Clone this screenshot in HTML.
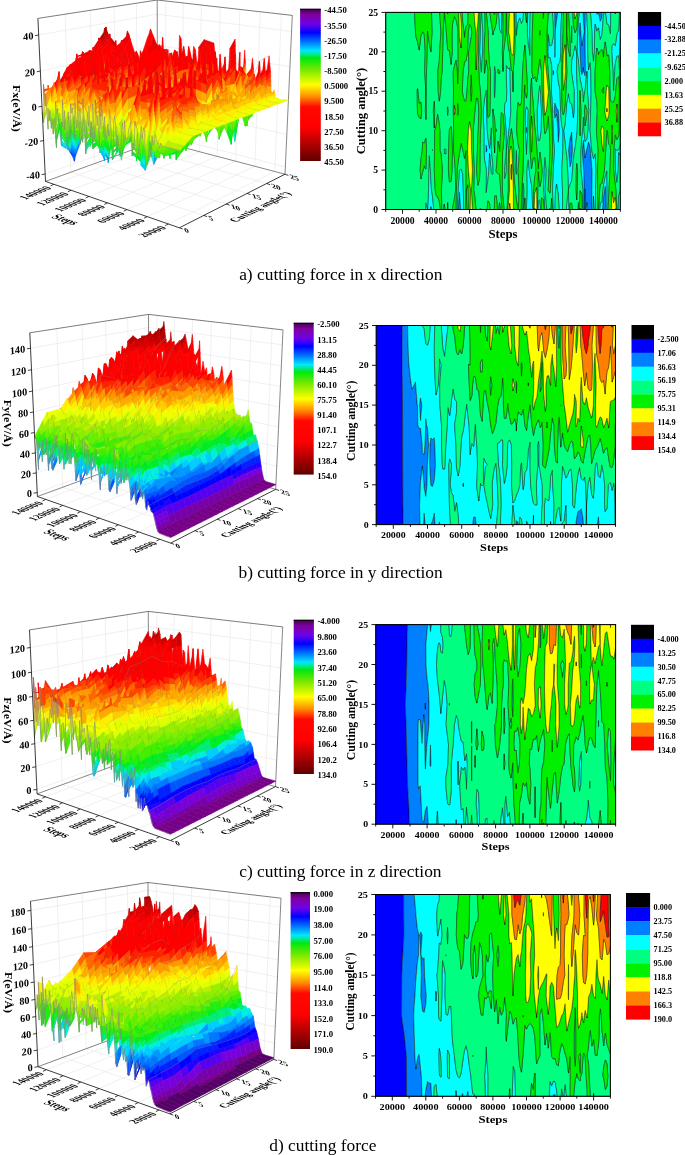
<!DOCTYPE html><html><head><meta charset="utf-8"><title>Cutting force</title><style>html,body{margin:0;padding:0;background:#fff}svg{display:block}</style></head><body><svg width="685" height="1155" viewBox="0 0 685 1155">
<rect width="685" height="1155" fill="#fff"/>
<path d="M168.4,224L274.8,171.5M274.8,171.5L281.4,14.2M147.2,216.6L254.9,166.3M254.9,166.3L260.2,11.8M126.9,209.6L235.8,161.2M235.8,161.2L239.8,9.4M107.5,202.8L217.3,156.4M217.3,156.4L220.2,7.2M88.9,196.4L199.5,151.7M199.5,151.7L201.4,5.1M71,190.2L182.3,147.2M182.3,147.2L183.2,3M53.8,184.3L165.7,142.9M165.7,142.9L165.7,1M203.7,215.4L70.8,172.2M70.8,172.2L65,14.2M226.2,204L94.5,163.6M94.5,163.6L90.3,10.3M247.1,193.4L116.8,155.5M116.8,155.5L114,6.7M266.7,183.5L137.8,147.9M137.8,147.9L136.3,3.2M45.2,174L157.6,134.3M157.6,134.3L285.3,166.9M43.6,140.6L157.5,105.3M157.5,105.3L286.8,134.4M42,106.3L157.4,75.6M157.4,75.6L288.4,101M40.4,71.1L157.3,45.2M157.3,45.2L289.9,66.7M38.7,35L157.2,14.2M157.2,14.2L291.6,31.5" stroke="#e6e6e6" stroke-width=".6" fill="none"/>
<path d="M157.6,140.7L157.2,0M285,174.2L292.3,15.4M45.5,181.4L157.6,140.7M285,174.2L157.6,140.7" stroke="#555" stroke-width=".7" fill="none"/>
<path d="M37.9,18.4L157.2,0M157.2,0L292.3,15.4" stroke="#444" stroke-width=".7" fill="none"/>
<g fill="currentColor" stroke="currentColor" stroke-width=".6" stroke-linejoin="round">
<path color="#f00" d="M166,59.3l-.3-7-.3,4.3-4.9,1.1 .2-2.6 .3,6.1zM182.3,59.4l-.3-5.1-.2-5.2-.3-5.1-.3-5.2-1.7-3.6-.3,10.9-.4,10.8-5,13.8 .3-10.2 .4-10.4 1.7,1.3 .3,2.3 .3,2.4 .3,2.4 .2,2.3zM196.7,61.5l-.3-3-.4-3-.3-3-.3-3-.5-.8-.4-.8-.4-.8-.5-.8-.4,6.6-.3,6.4-.4,6.5-4.8-6.6 .3-4.3 .3-4.2 .4-4.3 .4,1.9 .4,1.8 .5,1.9 .4,1.9 .4,1.9 .3,1.9 .3,2 .4,1.9zM199.3,62.6l-.4-2.6-1,2.2-4.9,1.6 .9,.3 .5,0zM215.9,67.1l-.2-3.9-.2-3.8-.4-3.3-.3-3.2-.3-3.3-.3-3.2-4.8-2.8 .3,2.1 .3,2.1 .4,2.2 .3,2.1 .3,5.1 .2,5.1zM235.8,63.7l-.2-6.1-.2-6.2-.1-6.1-5,8 .2,5.3 .2,5.3 .2,5.3zM245.4,61.7l-.3-3.9-.2-3.9-.2-3.9-.6,9.1-.6,9.1-4.6-2.6 .5-6.6 .5-6.7 .1,9.3 0,9.3 .1,9.3zM253.4,68.6l-.3-3.5-.3-3.5-.3-3.5-.5,3.7-.4,3.7-.5,3.7-4.8,5.9 .3,.4 .3,.4 .3,.4 .4,.3 .4,.4 .4,.3zM270.5,71.6l-.2-2.6-.3-2.7-.2-2.6-.3-2.6-.2-2.7-.2-2.6-.5,3.4-.5,3.5-.5,3.4-.5,3.4-4.8,6.5 .5-4.4 .5-4.4 .5-4.4 .5-4.4 .2,3.6 .2,3.5 .3,3.6 .2,3.6 .2,3.5 .2,3.6z"/>
<path color="#f20" d="M182.5,64.5l-.2-5.1-5,1.4 .3,2.4zM197.9,62.2l-.9,2.2-.3-2.9-4.9,.1 .3,1.9 .9,.3zM200.1,68l-.4-2.7-.4-2.7-4.9,1.5 .4,0 .5,.1zM216.2,71l-.3-3.9-4.7-4.8 .2,5.1zM225.4,67.4l-.3-3.1-.2-3.2-1,3.5-5,9.7 1-3.3 .2,2.6 .3,2.5zM235.9,69.7l-.1-6-4.9,5.5 .2,5.3zM251.1,69.2l-.4,3.7-.5,3.6-4.6-2.2 .3,.4 .4,.4zM253.7,72.1l-.3-3.5-5,8.7 .4,.4zM262.6,73.3l-.3-3.2-5,10.9 .4,.1zM270.7,76.8l-.2-5.2-4.9,8.2 .3,2.1z"/>
<path color="#e00" d="M214.2,46.4l-.3-3.3-4.9-1.7 .4,2.2zM235.3,45.3l-.2-6.2-5,8.9 .2,5.3z"/>
<path color="#f40" d="M216.4,74.8l-.2-3.8-4.8-3.6 .2,5.1zM245.6,65.6l-.2-3.9-5.3,18.5 .1,9.2zM254,75.5l-.3-3.4-4.9,5.6 .4,.3zM270.8,82l-.1-5.2-4.8,5.1 .3,2.1z"/>
<path color="#f90" d="M216.7,78.7l-.3-3.9-4.8-2.3 .3,5.1zM245.8,69.5l-.2-3.9-5.4,23.8 .1,9.1zM254.4,81.7l-.2-3.1-4.8,4.8 .1,5.3z"/>
<path color="#f60" d="M238.4,75.3l-.2-3.8-.5,1.1-.6,1-.5,1.1-.5,1.1-4.8,3.9 .4,1 .5,1 .5,.9 .4,1 .3,.9zM254.2,78.6l-.2-3.1-4.8,2.5 .2,5.4zM271,87.2l-.2-5.2-4.6,2 .2,2.2z"/>
<path color="#fc0" d="M246,73.4l-.2-3.9-5.5,29 0,9.1zM247.9,77.4l-.3-.6-.3-.7-.4-.7-.3-.7-.3-.7-5.6,31.6 .4-1.9 .4-2 .4-2 .4-1.9 .4-2zM271.3,97.4l-.2-5.1-4.4-4 .3,2.1zM275.2,95.2l-.6-2.7-4.6,.8 .6,3.1z"/>
<path color="#fe0" d="M246.3,74l-.3-.6-5.7,34.2 .4-2zM275.8,98l-.6-2.8-4.6,1.2 .6,3.1z"/>
<path color="#8e0" d="M257.9,107.3l-.3,.3-.4,.4-4.8,6.4 .4-2.6 .5-2.6z"/>
<path color="#fa0" d="M271.1,92.3l-.1-5.1-4.6-1 .3,2.1zM274.6,92.5l-.6-2.8-.6,3.2-4.5-2.1 .5-.5 .6,3z"/>
<path color="#ef0" d="M288.4,100.1l-2.1-.4-2.1-.2-2.2,.5-2.1-.3-2-1.7-2.1,0-4.6,1.5 2,.4 2.1,1.1 2.1,.2 2.2-.2 2.1,.5 2.1,.3z"/>
<path color="#f00" d="M157.4,62.6l-.3-3.5-.3-3.5-.3-3.5-.3-3.5-.3-3.5-.3-3.5-5.1-12.6 .3,4.4 .3,4.4 .3,4.4 .3,4.4 .3,4.3 .3,4.4zM177.3,60.8l-.2-2.3-.3-2.4-.3-2.4-.3-2.3-1.7-1.3-5.1,14.9 1.7-.9 .3-.5 .3-.4 .3-.5 .3-.4zM192.1,63.5l-.3-1.9-.4-1.9-.3-2-.3-1.9-.4-1.9-.4-1.9-.5-1.9-.4-1.8-.4-1.9-.4,4.3-.3,4.2-.3,4.3-.4,4.2-.3,4.2-4.9-11.2 .3-2 .3-1.9 .3-2 .3-2 .4-2 .4,3 .4,2.9 .5,2.9 .4,3 .3,.8 .4,.9 .4,.9 .3,.8 .4,.9zM211.4,67.4l-.2-5.1-.2-5.1-.3-5.1-.3-2.1-.4-2.2-4.8-5.1 .3,1 .4,1 .2,6.4 .2,6.4 .3,6.3zM230.9,69.2l-.2-5.3-.2-5.3-.2-5.3-.2-5.3-.5,7.1-.5,7-.5,7.1-5,6.2 .5-6.1 .4-6.2 .5-6.2 .2,4.5 .2,4.5 .3,4.5 .2,4.4zM240,70.9l0-9.3-.1-9.3-.5,6.7-.5,6.6-.6,6.6-4.6-5 .4-4.2 .4-4.2 .5-4.3-.1,14.9 0,14.7zM245.6,74.3l-.3-.4-4.6-6.4 .2,4.5zM265.2,72.7l-.2-3.6-.3-3.6-.2-3.5-.2-3.6-.5,4.4-.5,4.4-.5,4.4-4.9,5.6 .5-5.4 .5-5.4 .6-5.4 .2,4.5 .2,4.6 .2,4.5 .2,4.5z"/>
<path color="#f20" d="M177.9,65.6l-.3-2.4-.3-2.4-5,1.5 .3-.5 .3-.4zM194.8,64.1l-.4,0-.5,0-.9-.3-.9-.3-4.9-.9 .8,2.8 .9,2.9 .5-2.7 .5-2.7zM197.8,69.6l-.2-4.5-4.9-5 .2,4.7zM211.6,72.5l-.2-5.1-4.8-3.6 .2,6.3zM245.9,74.7l-.3-.4-4.7-2.3 .2,4.5zM265.4,76.2l-.2-3.5-4.9,6.4 .1,4.5z"/>
<path color="#f40" d="M179.1,68.2l-.6-1.3-.6-1.3-5-4.2 .6,3.4 .6,3.5zM198.1,74.2l-.3-4.6-4.9-4.8 .3,4.7zM231.1,74.5l-.2-5.3-5,5.6 .2,4.5zM246.6,75.5l-.3-.4-.4-.4-4.8,1.8 .2,4.6 .2,4.4zM249.2,78l-.4-.3-4.9,5.7 .5-2.8zM265.6,79.8l-.2-3.6-5,7.4 .2,4.5z"/>
<path color="#d00" d="M209.4,43.6l-.4-2.2-4.9-1.7 .3,1z"/>
<path color="#e00" d="M210,47.8l-.3-2.1-.3-2.1-5-2.9 .4,1 .4,1z"/>
<path color="#f60" d="M211.9,77.6l-.3-5.1-4.8-2.4 .2,6.3zM246.9,75.9l-.3-.4-5.1,10 .2,4.5zM248.8,77.7l-.4-.4-.4-.3-5.1,11.9 .5-2.7 .5-2.8zM249.4,83.4l-.2-5.4-4.8,2.6 .1,7.6zM267,90.4l-.3-2.1-.3-2.1-.2-2.2-.3-2.1-.3-2.1-5,8.3 .4-1 .4-1 .4-.9 .4-1 .4-1z"/>
<path color="#f90" d="M240.1,80.2l-.1-9.3-5.1,13.2-.1,14.6zM248,77l-.4-.4-.4-.3-.3-.4-5.2,14.1 .2,4.5 .5-2.8 .5-2.8zM269.4,90.3l-.5,.5-.6,.6-.5,.6-.6,.5-.2-2.1-4.4-7.2 .3-.9 .5,2.1 .4,2.1 .5,2.2 .4,2.1z"/>
<path color="#0e7" d="M240.7,105.6l-.4,2-5.6,33.9 .5-4.5z"/>
<path color="#0e2" d="M241.1,103.7l-.4,1.9-5.5,31.4 .4-4.5z"/>
<path color="#2e1" d="M241.5,101.7l-.4,2-5.5,28.8 .5-4.6zM252.4,114.4l-.4,2.5-.4-1.7-.5-1.7-.4-1.8-.5-1.7-5.2,15.9 .6-.1 .5-.1 .5,0 .5-.1 .5-4.8z"/>
<path color="#4e0" d="M241.9,99.7l-.4,2-5.4,26.2 .4-4.5zM252.8,111.8l-.4,2.6-4.8,6.4 .4-4.8z"/>
<path color="#8e0" d="M253.3,109.2l-.5,2.6-4.8,4.2 .5-4.8z"/>
<path color="#fa0" d="M270,93.3l-.6-3-4.7,.5 .6,3.4z"/>
<path color="#fc0" d="M270.6,96.4l-.6-3.1-4.7,.9 .6,3.4z"/>
<path color="#fe0" d="M271.2,99.5l-.6-3.1-4.7,1.2 .6,3.4z"/>
<path color="#ef0" d="M283.8,101.8l-2.1-.3-2.1-.5-2.2,.2-2.1-.2-2.1-1.1-2-.4-4.7,1.5 2.1,.8 2.1,.5 2.1,.2 2.1,.1 2.2,.6 2.1,.4z"/>
<path fill="none" stroke="#8c8c8c" stroke-width=".4" stroke-opacity=".7" d="M269.1,55.8L259.5,61M247.9,77.4L237.4,114.2M228.3,80.5L218.6,84.4M209.2,103.1L199.8,81.4M191.5,84.9L181.8,58.4M174.2,78.6L164.2,100.3"/>
<path fill="none" stroke="#4a4a3a" stroke-width=".45" stroke-opacity=".8" d="M279.2,103.6l-2.1-.4-2.2-.6-2.1-.1-2.1-.2-2.1-.5-2.1-.8-1.8-10.2-1.8-8.5-2.3,5.8-1.1-27.1-3.2,32.1-1.5-16.5-2.6,15.5-2.2,4.5-2.9,29-2.1,.3-.6-45.3-2.5,13.9-1.2-27-3.3,46.7-2.7,27.3 .3-87-2.6,25.1-2.1,3.9-2.3,12.3-1.6-12-1.4-26.9-2.8,36.8-2.2,14.7-1.4-24-2.1,8.3-1.7-11.7-2,6-2,7.9-1.6-15.8-2,3.6-1.3-38-1.8-5-2.6,49.8-1.7-8.1-1.9,7-1.8-5-1.9,4.6-1.5-27.9-1.9-2.5-1.9,10.7-1.7-5.7-1.8-4.3-1.7-11.8-1.9,11.9-2,33.8-1.7-11.2-1.7-10.9-1.8,1.6-1.7-10.3-1.8,2.7-1.7,.9-1.8,58-1.7-14.4-1.7-8.3-1.7-31.4-1.7,26.7-1.7-25-1.6,17.8-1.8-30.5-1.7,5.9-1.7-8.5-1.8-26.3-1.7,5.9-1.6,3.6"/>
<path color="#f00" d="M152.7,57.4l-.4-2.1-.3-4.4-.3-4.3-.3-4.4-.3-4.4-.3-4.4-.3-4.4-.9,3-.8,2.9-.8,1.8-.8,1.8-5.1,15.6 .8-1.9 .8-1.9 .9-.5 .8-.5 .3,1.3 .3,1.3 .3,1.3 .3,1.3 .2,1.3 .3,1.2 .5,2.8zM173.5,64.8l-.3-1.7-.3-1.7-.3,.4-.3,.5-.3,.4-5.1-.6 .3-4.2 .3-4.2 .3-4.2 .3,4.1 .3,4zM188.3,66.4l-.5-1.9-.6-1.9-.9-2.2-.9-2.1-.3-2-.3-1.9-.3-2-.3-2-.3-1.9-.2-2-.5,3-.5,3-.4,2.9-.5,3-5.1,11.2 .4-.1 .5-.2 .4-.1 .5-.1 .3-1.8 .3-1.9 .3-1.8 .3-1.9 .3-1.8 .3-1.9 .9-.4 .9-.4 .6,2.5 .6,2.6zM192.9,64.8l-.2-4.7-1.9-2.5-.4,2.6-.5,2.7-.5,2.7-.5,2.7-5-3.5 .5-2 .4-2 .5-2 .5-2 1.8-.4 .3,6.7zM206.6,63.8l-.3-6.3-.2-6.4-.2-6.4-.5-1.3-.4-1.2-5.2,9.7 .5,2.5 .4,2.4 .2,5.8 .3,5.7 .2,5.7zM225.9,74.8l-.2-4.4-.3-4.5-.2-4.5-.2-4.5-.5,6.2-.4,6.2-5,1.4 .5-8.2 .5-8.2 .2,3.5 .3,3.5 .3,3.4 .2,3.5zM234.9,69.4l.1-14.9-.5,4.3-.4,4.2-.4,4.2-.5,4.1-5,3.9 .4-1.8 .4-1.9 .4-1.9 .3-1.8 .2,8.7zM260.1,74.6l-.2-4.5-.2-4.6-.2-4.5-.6,5.4-.5,5.4-5.2,12.9 .5-5.3 .5-5.4 .3,3 .2,3.1 .3,3.1z"/>
<path color="#f20" d="M174.1,68.3l-.3-1.7-.3-1.8-5.1-7.2 .3,4 .3,4.1zM188.9,68.3l-.6-1.9-5-4.1 .6,2.5zM193.2,69.5l-.3-4.7-5-1.7 .2,6.7zM226.1,79.3l-.2-4.5-4.8-6.6 .3,3.4zM240.9,72l-.2-4.5-.6,7.9-5.1,10.5 .4-4.2 .3,3.8zM255,79.3l-.2-2.7-.5,3.1-5,3.9 .6-3.4 .2,4.4zM260.3,79.1l-.2-4.5-5.1,8.6 .2,3z"/>
<path color="#f40" d="M176.7,71.9l-.3-1.8-5.1-10.5 .3,4.8zM206.8,70.1l-.2-6.3-5.2,10.2 .3,5.7zM226.4,83.8l-.3-4.5-4.7-7.7 .2,3.5zM234.9,84.1l0-14.7-5,7.1 .1,8.7zM241.1,76.5l-.2-4.5-5.2,13.5 .2,3.8zM260.4,83.6l-.1-4.5-5.1,7.1 .3,3.1z"/>
<path color="#f60" d="M177,73.8l-.3-1.9-5.1-7.5 .3,4.7zM193.4,74.1l-.2-4.6-5.1,.3 .3,6.6zM226.7,86.2l-.3-2.4-4.8-8.7 .4,3.1zM255.3,82.1l-.3-2.8-4.9,5.3 .2,4.3zM263.5,85.1l-.6-2.8-1.1,2.9-4.9,4.5 1.1-2.6 .6,2.9z"/>
<path color="#e00" d="M205,42.2l-.5-1.2-.4-1.3-5.2,7.3 .5,2.5 .4,2.4z"/>
<path color="#f90" d="M207,76.4l-.2-6.3-5.1,9.6 .2,5.7zM227,88.6l-.3-2.4-4.7-8 .3,3.2zM241.3,81.1l-.2-4.6-5.2,12.8 .3,3.9zM244.5,88.2l-.1-7.6-.4,2.3-.4,2.3-5.1,7.2 .5-3 .4-3.1 .2,4.1zM261.8,85.2l-1.2,2.9-.2-4.5-4.9,5.7 .2,3 1.2-2.6zM264.1,88l-.6-2.9-4.9,4.9 .6,3z"/>
<path color="#fc0" d="M234.8,98.7l.1-14.6-4.9,1.1 .1,8.7zM241.7,90l-.2-4.5-5.1,11.5 .2,3.8zM244.6,95.8l-.1-7.6-4.9,2.2 .2,4zM265.9,97.6l-.6-3.4-4.8,3.9 .6,2.2z"/>
<path color="#0ed" d="M235.2,137l-.5,4.5-4.2-21.9 .4-2.2z"/>
<path color="#0e7" d="M235.6,132.5l-.4,4.5-4.3-19.6 .4-2.2z"/>
<path color="#0e2" d="M236.1,127.9l-.5,4.6-4.3-17.3 .3-2.1z"/>
<path color="#2e1" d="M236.5,123.4l-.4,4.5-4.5-14.8 .4-2.2zM247.1,125.6l-.7,.1-4.4-11.9 .6,1.6z"/>
<path color="#4e0" d="M237,118.8l-.5,4.6-4.5-12.5 .4-2.2zM246.4,125.7l-.7,.1-.7,.1-4.3-15.3 .7,1.6 .6,1.6zM247.6,120.8l-.5,4.8-4.5-10.2 .4-2.6z"/>
<path color="#fa0" d="M241.5,85.5l-.2-4.4-5.1,12.1 .2,3.8zM265.3,94.2l-.6-3.4-.6-2.8-4.9,5 .6,2.9 .7,2.2z"/>
<path color="#ef0" d="M244.7,103.4l-.1-7.6-4.8-1.4 .3,4.1zM274.9,102.6l-2.1-.1-2.1-.2-2.1-.5-2.1-.8-4.8,1.5 2.1,1 2.1,.3 2.2,.3 2.1,.3zM279.2,103.6l-2.1-.4-4.8,1.7 2.2,.4z"/>
<path color="#6e0" d="M248,116l-.4,4.8-4.6-8 .4-2.5z"/>
<path color="#8e0" d="M248.5,111.2l-.5,4.8-4.6-5.7 .5-2.5z"/>
<path color="#fe0" d="M266.5,101l-.6-3.4-4.8,2.7 .6,2.2zM277.1,103.2l-2.2-.6-4.7,1.8 2.1,.5z"/>
<path color="#f20" d="M142.9,52.2l-.8,1.9-5.1,15.8 .8-2.1zM148,62.7l-.4-2.9-5.2,2.5 .4,3.5zM201.2,68.3l-.3-5.7-5.2,11.5 .3,5.1zM222.3,81.4l-.3-3.2-4.9-8.1 .3,3.9zM229.4,69.6l-.4,1.9-.4,1.9-.4,1.8-.3,1.9-5,1.6 .3,.5 .3,.5 .3,.4 .4,.5zM229.9,76.5l-.2-8.7-5.2,13.3 .2,2.6zM254.5,77l-.3-3-5.2,13 .3,1.6z"/>
<path color="#f00" d="M147.6,59.8l-.5-2.8-.3-1.2-.2-1.3-.3-1.3-.3-1.3-.3-1.3-.3-1.3-.8,.5-.9,.5-.8,1.9-5.1,15.6 .8-2 .9,2 .8,1.9 .3-1.8 .3-1.8 .2-1.8 .3-1.8 .2-1.8 .3-1.9 .5,3.5zM169,65.7l-.3-4.1-.3-4-.3-4-.3-4.1-.3,4.2-.3,4.2-.3,4.2-5.2-.7 .3-8 .3-8 .3-8.1 .3,6.5 .3,6.4 .3,6.4 .3,6.4zM171.9,69.1l-.3-4.7-.3-4.8-.3,2.4-.3,2.3-.3,2.4-5.1-4.3 .3-4.5 .3-4.5 .3-4.5 .3,7.7 .3,7.7zM188.1,69.8l-.2-6.7-.3-6.7-1.8,.4-.5,2-.5,2-.4,2-.5,2-.6-2.5-.6-2.6-.6-2.5-.9,.4-.9,.4-.3,1.9-.3,1.8-5.2,7.5 .3-5.7 .4-5.7 .9-3.1 .9-3.1 .6,3.2 .6,3.3 .6,3.2 .5-1.3 .4-1.3 .5-1.3 .5-1.3 1.8-3.4 .3,8.7 .2,8.7zM200.9,62.6l-.2-5.8-.4-2.4-.5-2.5-.4-2.4-.5-2.5-.4,6.6-.4,6.6-.3,6.5-5.2,1.8 .4-4.7 .4-4.7 .3-4.7 .5,3.7 .4,3.6 .4,3.7 .5,3.6 .2,5.1zM222,78.2l-.4-3.1-.2-3.5-.3-3.4-.2-3.5-.3-3.4-.3-3.5-.2-3.5-.5,8.2-.5,8.2-5,1.5 .5-10.3 .5-10.2 .3,2.4 .3,2.4 .2,2.5 .3,2.4 .3,2.4 .3,2.4 .3,3.9zM229.7,67.8l-.3,1.8-5.2,11 .3,.5z"/>
<path color="#f40" d="M172.2,73.8l-.3-4.7-5.1-4.8 .3,7.6zM204.8,78.7l-.2-3.6-5-6.7 .3,4.6zM222.6,84.5l-.3-3.1-4.9-7.4 .4,3.9zM250.1,84.6l-.2-4.4-.6,3.4-5,4 .6-3.6 .1,5.9zM254.7,80.1l-.2-3.1-5.2,11.6 .3,1.6z"/>
<path color="#f60" d="M188.4,76.4l-.3-6.6-5.1,.3 .3,8.7zM201.4,74l-.2-5.7-5.2,10.9 .2,5.1zM205.1,82.3l-.3-3.6-4.9-5.7 .2,4.5zM230,85.2l-.1-8.7-5.2,7.2 .3,2.7zM255.2,86.2l-.2-3-.3-3.1-5.1,10.1 .3,1.6 .3,1.6z"/>
<path color="#fa0" d="M188.6,83.1l-.2-6.7-5.1,2.4 .2,8.6zM230.1,93.9l-.1-8.7-5,1.2 .3,2.6zM235.7,85.5l-.3-3.8-.4,4.2-5.2,10.5 .4-.4 .2,3.1zM239.8,94.4l-.2-4-.2-4.1-.4,3.1-5.1,6.5 .4-3.8 .3,.5 .4,.4zM256.9,89.7l-1.2,2.6-.2-3-5,5.7 .3,1.6 1.1-2.3zM259.2,93l-.6-3-5,5.1 .6,3z"/>
<path color="#fe0" d="M230.2,102.5l-.1-8.6-4.8-4.9 .3,2.7zM236.2,93.2l-.3-3.9-5.2,12.9 .2,3.2zM240.3,102.5l-.2-4-4.8-5 .3,.4zM263.8,103.5l-2.1-1-.6-2.2-.6-2.2-5,4 .7,.9 .7,1 2.1,1.3zM274.5,105.3l-2.2-.4-2.1-.5-2.1-.3-4.9,1.6 2.2,.5 2.1,.4 2.2,.5z"/>
<path color="#fc0" d="M235.9,89.3l-.2-3.8-5.3,13.6 .3,3.1zM240.1,98.5l-.3-4.1-4.8-1.4 .3,.5zM260.5,98.1l-.7-2.2-.6-2.9-5,5.1 .6,3 .7,1z"/>
<path color="#ef0" d="M240.7,110.6l-.2-4-.2-4.1-4.7-8.6 .4,.5 .3,.4zM268.1,104.1l-2.2-.3-2.1-.3-4.8,1.8 2.1,0 2.1,.4z"/>
<path color="#df0" d="M241.4,112.2l-.7-1.6-4.4-15.8 .6,3.4z"/>
<path color="#f90" d="M250.3,88.9l-.2-4.3-5.1,5.3 .2,5.8zM255.5,89.3l-.3-3.1-5,7.2 .3,1.6zM258.6,90l-.6-2.9-1.1,2.6-5,4.6 1.1-2.3 .6,3.1z"/>
<path fill="none" stroke="#8c8c8c" stroke-width=".4" stroke-opacity=".7" d="M259.5,61L249,87M237.4,114.2L228.1,98.6M218.6,84.4L208.8,78.4M199.8,81.4L189.5,101.7M181.8,58.4L171.5,80.9M164.2,100.3L154.1,112.3"/>
<path fill="none" stroke="#4a4a3a" stroke-width=".45" stroke-opacity=".8" d="M269.7,107.1l-2.2-.5-2.1-.4-2.2-.5-2.1-.4-2.1,0-2.1-1.3-2.1-2.9-1.8-9.1-2.2,4.6-1.8-9.6-3.1,31.9-1-34.9-2.6,18.2-2.2,1.4-2,1.3-1.8-10.1-2-2.7-2.6,22.6-1.5-18.7-2.1,2.6-2-1.7-1.6-15.8-2-2.8-2.1,5.7-2,1.7-1.6-19.5-1.7-14.5-3,60.4-1.9-5-1.4-28.7-2.2,17.2-1.8-8.8-2.2,18.2-1.7-13.8-1.6-27.4-2.3,35.6-1.5-30.4-1.8-14.6-2.1,28-2.1,19.3-1.7-15.5-1.8-.5-2,18.8-1.5-51.8-1.8,3.4-1.9,5.2-1.8-9.7-1.8,6.2-1.9,33.9-1.8-10.8-1.8,7-1.8,6.8-1.7-45.8-1.8,26.9-1.8-38.5-1.7,47.8-1.7,2.5-1.7,23.9-1.6,18.1-1.8-17.3-1.9-45.5-1.5,37.3-2-47-1.7,.5-1.5,22.2-1.8-7-1.8-14-1.6,10.9-1.7-3.9-1.6,4.1"/>
<path color="#f20" d="M143,67.2l-.4-2.8-5.4-7.2 .4,2.9zM194.9,64.2l-.3-2.5-5.3,18.3 .2,3.6zM199.9,73l-.3-4.6-5.2,4.8 .3,2.9zM217.6,76l-.3-3.3-5.1,3.7 .3,3.7z"/>
<path color="#f40" d="M143.4,70l-.4-2.8-5.4-7.1 .4,2.9zM149.4,72.9l-.4-7.8-5.3-3.1 .3,6zM195.2,66.6l-.3-2.4-5.4,19.4 .3,3.5zM200.1,77.5l-.2-4.5-5.2,3.1 .3,2.9zM217.9,79.2l-.3-3.2-5.1,4.1 .2,3.6z"/>
<path color="#f90" d="M149.7,80.8l-.3-7.9-5.4-4.9 .4,5.9zM195.7,74.1l-.2-5.1-5.4,21.7 .3,3.3zM226.5,97.2l-.4-.3-.2-2.6-.3-2.6-.3-2.7-.3-2.6-.3-2.7-.2-2.6-2-2.8-1,2.8-1.1,2.9-2,1.7-.3-3.2-5.1,4.8 .3,3.7 1.9,.5 1,.5 1,.5 2-.1 .4-2.4 .4-2.4 .4-2.4 .3-2.5 .4-2.4 .4-2.4 .3,3.6zM245,89.9l-.1-5.9-.5,3-5.2,10.2 .5-5.3 .2,4.2zM249.6,90.2l-.6-3.2-5.3,11 .7,.1z"/>
<path color="#f00" d="M164.1,69.4l-.3-6.4-.3-6.4-.3-6.4-.3-6.4-.3-6.5-.3,8.1-.3,8-5.2,17.4 .3-9.4 .2-9.4 .3,2.2 .3,2.2 .3,2.2 .3,2.2 .3,2.2zM167.1,71.9l-.3-7.6-.3-7.7-.3-7.7-.3,4.5-.3,4.5-.3,4.5-.3,4.5-.3,4.4-5.3-9.4 .3-3.2 .3-3.2 .3-3.3 .3-3.3 .3-3.3 .3,4.5 .3,4.4 .3,4.4zM183,70.1l-.2-8.7-.3-8.7-.5,.8-.4,.9-.5,.8-.4,.9-.4,.9-.3,.8-.3,.9-.3,.9-.3,.9-.3,.8-.3-1.6-.3-1.6-.3-1.6-.3-1.7-.3-1.6-.3-1.6-.9,3.1-.9,3.1-.4,5.7-.3,5.7-5.2-8.2 .3-3.7 .3-3.7 .9-.3 .9-.3 .3,2.8 .3,2.8 .3,2.8 .3,2.8 .3,2.8 .3,2.8 .3-2.5 .4-2.5 .3-2.6 .3-2.5 .3-2.6 .3-2.5 .5,1.1 .4,1 .5,1.1 .5,1 .2,6.9 .3,6.8zM194.6,61.7l-.3-2.4-.3-2.5-.3-2.4-.3,4.7-.4,4.7-5.3,10.2 .4-2.4 .3-2.4 .3,3.6 .3,3.6 .3,3.6zM199.6,68.4l-.3-4.6-.4,6-5.2,7.3 .4-6.8 .3,2.9zM217.3,72.7l-.2-3.2-.3-3.3-.4-3.6-.5-3.6-.4-3.7-.4-3.6-.5,10.2-.5,10.3-5.2,2.4 .5-8.9 .5-9 .4,3.1 .5,3.1 .4,3.1 .5,3.1 .2,3.7 .3,3.6z"/>
<path color="#f60" d="M183.3,78.8l-.3-8.7-5.2,2.4 .3,6.8zM195.5,69l-.3-2.4-5.4,20.5 .3,3.6z"/>
<path color="#fa0" d="M183.5,87.4l-.2-8.6-5.2,.5 .3,6.7zM227.1,97.8l-.3-.3-.3-.3-4.7-15.7 .2,3.7 .3,3.6zM236.9,98.2l-.6-3.4-.7-.9-.6-.9-.7-.9-5,3.1 .7-1.4 .7-1.3 .7-1.3 .6,3.5zM245.2,95.7l-.2-5.8-5.1,6.2 .2,4.1zM254.2,98.1l-.6-3-.6-3.1-1.1,2.3-1.1,2.3-.6-3.2-.6-3.2-5.2,7.9 .7,.1 .7,.1 1.1-1.1 1.1-1.2 .6,2.4 .7,2.4z"/>
<path color="#fc0" d="M227.8,98.3l-.4-.3-.3-.2-4.8-9 .2,3.7 .3,3.6zM254.8,101.1l-.6-3-4.9,2.7 .6,2.4z"/>
<path color="#fe0" d="M237.5,101.5l-.6-3.3-4.9-3.5 .6,3.6zM245.4,101.6l-.2-5.9-5.1,4.5 .3,4.2zM259,105.3l-2.1-1.3-2.1-2.9-4.9,2.1 2,2.3 2.1,1.4zM269.7,107.1l-2.2-.5-2.1-.4-4.9,1.9 2.1,.4 2.2,.5z"/>
<path color="#ef0" d="M240.1,103.6l-.6,.5-.7,.4-.7,.4-.6-3.4-4.9-3.2 .6,3.6 .6,1.4 .7,1.4 .6,1.5zM265.4,106.2l-2.2-.5-2.1-.4-2.1,0-5,1.6 2.2,.3 2.1,.7 2.2,.2z"/>
<path color="#be0" d="M242.7,99.1l-.4,3.1-5.6,21 .5-5.1z"/>
<path color="#9e0" d="M246.4,113.7l-.5,5.2-.2-5.7-4.9-.5 .3,4.1 .4-3.1z"/>
<path color="#f00" d="M139.2,67.5l-.8-1.6-.4-2.9-.4-2.9-.4-2.9-.3-3-.4-2.9-.4,.4-.4,.4-.4,.4-.5,.5-.8-2.2-5.7-17.5 .9,2.4 .4,2 .5,2 .4,2 .5,1.9 .4,3.1 .3,3.1 .4,3 .4,3.1 .4,3 .8-.3zM144,68l-.3-6-.3-5.9-1.8-1.5-.2,2.4-.3,2.5-.2,2.4-.3,2.4-.3,2.4-.2,2.5-5.5-10.9 .2-1.2 .3-1.1 .3-1.1 .3-1.1 .2-1.1 .3-1.2 1.8,3.5 .3,4 .3,3.9zM163.3,76.7l-.3-2.4-.3-2.3-.3-4.4-.3-4.4-.3-4.3-.3-4.4-.3-4.4-5.4-6.7 .3,1 .3,1 .3,1 .3,1.1 .3,1 .3,6 .3,6.1zM173.2,67l-.3-2.8-.3-2.8-.3-2.8-.3-2.8-.3-2.8-.9,.3-.9,.3-.3,3.7-.3,3.7-.3,3.8-.3,3.7-.3,3.7-.3,3.6-5.3-16.3 .3-1.7 .3-1.7 .3-1.7 .3-1.7 .3-1.8 .3-1.7 .9,2.7 .9,2.6 .3,4 .3,4 .3,4 .3,4 .3,3.9zM177.5,65.7l-.2-6.9-.5-1-.5-1.1-.4-1-.5-1.1-.3,2.5-.3,2.6-.3,2.5-.3,2.6-.4,2.5-5.3,6.9 .3-4.2 .4-4.2 .3-4.2 .3-4.3 .3-4.2 .5,3 .4,3 .5,3 .4,3 .3,4.9zM212.2,76.4l-.3-3.6-.2-3.7-.5-3.1-.4-3.1-.5-3.1-.4-3.1-.5,9-.5,8.9-5.2,2.5 .4-7.6 .5-7.7 .4,2.5 .5,2.6 .5,2.6 .4,2.5 .3,4.1 .3,4.1zM222,85.2l-.2-3.7-.3-3.6-.4,2.4-.4,2.4-4.9-9.1 .5-7.7 .4-7.7 .2,7.2 .2,7.2z"/>
<path color="#f40" d="M144.4,73.9l-.4-5.9-5.4-5.1 .3,3.9zM195,79l-.3-2.9-.3-2.9-5.3,5 .3,1.2 .3,1.2zM201.9,84.9l-.3-2.3-5-13.3 .2,7.5zM212.5,80.1l-.3-3.7-5.2,3.8 .2,4z"/>
<path color="#f60" d="M144.7,79.8l-.3-5.9-5.5-7.1 .4,3.9zM178.1,79.3l-.3-6.8-5.3,2.4 .3,4.9zM188.7,72.8l-.3-3.6-5.3,14.9 .2,4.8zM202.2,87.1l-.3-2.2-5.1-8.1 .3,7.4zM222.5,92.5l-.2-3.7-4.9-9.1 .2,7.1z"/>
<path color="#e00" d="M161.2,50.1l-.3-4.5-.3,3.3-5.4-4.5 .3-2 .3,1z"/>
<path color="#f20" d="M173.8,67.3l-.3,2.5-.3-2.8-5.3,7.4 .3,4 .3-4.2zM177.8,72.5l-.3-6.8-5.3,4.3 .3,4.9zM194.4,73.2l-.3-2.9-5.3,6.7 .3,1.2zM222.3,88.8l-.3-3.6-4.9-12.6 .3,7.1z"/>
<path color="#f90" d="M178.4,86l-.3-6.7-5.3,.5 .3,4.8zM189,76.4l-.3-3.6-5.4,16.1 .3,4.7zM232,94.7l-.6-3.5-.7,1.3-.7,1.3-5.1,.8 .7-3.5 .8-3.6 .6,3.7z"/>
<path color="#fa0" d="M183.4,89.7l-.4-3.4-5.2-3 .4,3.7zM222.8,96.1l-.3-3.6-4.9-5.7 .2,7zM232.6,98.3l-.6-3.6-5-3.5 .6,3.8zM239.9,96.1l-.2-4.2-5.3,8 .3,2.5zM248.6,98.4l-.6-2.4-1.1,1.2-1.1,1.1-5.1,1.8 1.1,0 1.1-.1 .6,1.8z"/>
<path color="#fc0" d="M223.1,99.7l-.3-3.6-5-2.3 .2,7zM233.2,101.9l-.6-3.6-5-3.3 .6,3.8zM240.1,100.2l-.2-4.1-5.2,6.3 .3,2.5zM245.8,98.3l-.7-.1-.7-.1-5.2,8 .8-3 .7-3zM249.9,103.2l-.6-2.4-.7-2.4-5.1,3.4 .7,1.7 .6,1.7z"/>
<path color="#fe0" d="M233.8,103.3l-.6-1.4-5-3.1 .6,3.3zM240.4,104.4l-.3-4.2-5.1,4.7 .3,2.4zM244.4,98.1l-.7-.1-.4,3.2-5.3,8.8 .4-.9 .8-3zM254,106.9l-2.1-1.4-2-2.3-5.1,2 2.1,1.8 2.1,1.5zM264.8,109l-2.2-.5-4.9,1.9 2.1,.4z"/>
<path color="#0e2" d="M237.2,118.1l-.5,5.1-.2-2.8-5.5,18.1 .2,5.8 .6-7.2z"/>
<path color="#4e0" d="M237.7,112.9l-.5,5.2-5.4,19 .5-7.4z"/>
<path color="#8e0" d="M238.2,107.7l-.5,5.2-5.4,16.8 .5-7.3z"/>
<path color="#be0" d="M238.7,102.4l-.5,5.3-5.4,14.7 .5-7.5z"/>
<path color="#ef0" d="M262.6,108.5l-2.1-.4-2.2-.2-2.1-.7-2.2-.3-5,1.6 2.2,.7 2.1,.9 2.2-.1 2.2,.4z"/>
<path fill="none" stroke="#8c8c8c" stroke-width=".4" stroke-opacity=".7" d="M249,87L238.4,109.1M228.1,98.6L218,100.8M208.8,78.4L198,113.6M189.5,101.7L179.2,98.2M171.5,80.9L161,113.1M154.1,112.3L143.5,90.2"/>
<path fill="none" stroke="#4a4a3a" stroke-width=".45" stroke-opacity=".8" d="M259.8,110.8l-2.1-.4-2.2-.4-2.2,.1-2.1-.9-2.2-.7-2.1-1.5-2.1-1.8-1.9-5.2-2.2,.1-2.3,9-2.3,5.5-1.7-14.7-3.2,44.4-1.2-35.5-1.8-10-1.8-11.3-2.3,10.7-2.3,14.2-2.1,1.8-1.7-13.4-1.3-42.6-2.8,45.6-2.1,3.1-1.8-7.8-2-2.8-1.6-24.3-1.8-10.2-2.6,45.5-1.9-2-2.1,8.3-1.4-44.3-2.2,27.3-2.1,17.1-1.6-29.6-1.9-7.1-2.3,44-1.8-8.6-1.6-28.3-1.9,.6-2,13.5-1.7-18.7-2,23.8-1.8-9-1.8-29.2-1.8-12-1.9,25.3-1.8-23.9-1.8-5.3-1.8,10.3-1.8,53.6-1.8-28.6-1.9-36-1.8-6.1-1.8,11.9-1.7,12.4-1.4,63.7-2-42.3-1.4,37.8-1.8-7.9-1.9-27.8-1.4,36.9-2.2-48.6-1.9-23.5-1.8-3.5-1.6,6.8-1.7,.6-1.9-15.3-1.8-7.9-1.8-4.8-1.6,7.9"/>
<path color="#d00" d="M128.6,34.1l-.6-1.6-.6-1.6-.5,2.7-.5,2.6-5.5,5.9 .6-1.1 .5-1 .6,2.2 .6,2.2z"/>
<path color="#e00" d="M129.8,38.4l-.6-2.7-.6-1.6-5.4,10.3 .6,2.2 .6,1.8zM155.8,43.4l-.3-1-.3,2-5.5,4.4 .3-3.1 .3,3.8zM164.9,50.3l-.3-1.1-.3,1.7-5.5-3.4 .3-3 .4,2.5z"/>
<path color="#f00" d="M138.6,62.9l-.3-3.9-.3-4-.9-1.7-.9-1.8-.3,1.4-.3,1.3-.4,1.4-.3,1.3-.3,1.4-.3,.1-.3,.1-.3,.1-.3,.1-.2,.1-.3,.1-.4-3-.4-3.1-.4-3-.3-3.1-.4-3.1-.6-2.6-.6-2.6-5.4,10 .6,1.8 .6,1.8 .3,.2 .4,.2 .3,.2 .4,.2 .3,.2 .3,1.9 .3,2 .3,1.9 .3,1.9 .4,1.9 .3,1.9 .3-2.2 .3-2.2 .3-2.3 .3-2.2 .3-2.2 .9,2.5 .9,2.6 .3,3.8 .4,3.7zM157.9,60.6l-.3-6.1-.3-6-.3-1-.3-1.1-.3-1-.3-1-.3-1-5.5,6.1 .4,3.8 .3,3.7 .3,3.8 .3,3.7 .3,3.7 .4,2.7 .3,2.7zM167.3,66.5l-.3-4-.3-4-.3-4-.4-1-.3-1.1-.4-1.1-.4-1-5.4-3.3 .4,2.4 .3,2.4 .4,2.4 .4,2.5 .3,7.9 .3,7.9 .3,7.8zM206,69.5l-.5-2.6-.5-2.6-.4-2.5-.5,7.7-5.4,10.3 .4-5.3 .5,3.2 .4,3.1 .5,3.2zM217.1,72.6l-.2-7.2-.2-7.2-.4,7.7-.5,7.7-.5,7.6-5.2-4.6 .4-3.2 .4-3.2 .4-3.2 .2,8.2 .2,8z"/>
<path color="#f20" d="M138.9,66.8l-.3-3.9-5.4,3.1 .3,3.8zM171.9,65.1l-.3-2-.3-2-.3-2-.3-2-.3-2-.3-2-.3,4.2-5.4,34.3 .3-2.4 .3-.9 .3-.9 .3-.9 .3-.9 .3-.9 .3-.8zM196.8,76.8l-.2-7.5-5.4,9.5 .3,6.4zM206.7,76.1l-.3-4.1-.4-2.5-5.5,14.5 .4,3.2 .4,1.3zM217.4,79.7l-.3-7.1-5.4,10.6 .2,8.1z"/>
<path color="#f40" d="M139.3,70.7l-.4-3.9-5.4,3 .3,3.7zM167.6,70.5l-.3-4-5.4,13.8 .4,7.8zM172.2,70l-.3-4.9-5.4,18.8 .3,1.2zM207,80.2l-.3-4.1-5.4,12.4 .3,1.3z"/>
<path color="#f90" d="M167.9,74.4l-.3-3.9-5.3,17.6 .3,7.8zM172.8,79.8l-.3-4.9-5.4,11.5 .3,1.2zM178.2,87l-.4-3.7-5.3-2.1 .3,3.8zM227.3,93.1l-.3-1.9-.3-1.9-5.2,3.7 .2,3 .3,2.9z"/>
<path color="#f60" d="M172.5,74.9l-.3-4.9-5.4,15.1 .3,1.3zM177.8,83.3l-.3-3.8-.4,4-5.3-5.3 .3-.7 .4,3.7zM189.7,80.6l-.9-3.6-5.4,9.9 .9,3zM197.1,84.2l-.3-7.4-5.3,8.4 .2,6.3zM207.2,84.2l-.2-4-5.4,9.6 .3,1.4zM217.6,86.8l-.2-7.1-5.5,11.6 .2,8zM226.7,89.3l-.3-1.8-.8,3.6-5.2,2.4 .8-3.6 .3,3.1z"/>
<path color="#fc0" d="M217.8,93.8l-.2-7-5.5,12.5 .2,7.9zM227.9,96.9l-.3-1.9-5.3,6.9 .3,3zM244.8,105.2l-.9-2.6-1-2.6-5.2,2.6 1,2.2 1,2.2z"/>
<path color="#ef0" d="M218,100.8l-.2-7-5.5,13.4 .2,7.9zM228.8,102.1l-.3-1.6-5.3,10.1 .2,2.7zM259.8,110.8l-2.1-.4-2.2-.4-2.2,.1-2.1-.9-2.2-.7-5.1,1.8 2.2,.7 2.1,.8 2.2,.1 2.2,.4 2.2,.4z"/>
<path color="#fa0" d="M227.6,95l-.3-1.9-5.3,5.8 .3,3zM242.9,100l-.7,0-.8,.1-.7,0-.7,3-5.1-2.5 .8-2.7 .7,1.6 .6,1.6 .7,1.5z"/>
<path color="#fe0" d="M228.5,100.5l-.3-1.7-.3-1.9-5.3,8 .3,3 .3,2.7zM249,108.5l-2.1-1.5-2.1-1.8-5.1,1.8 2.1,2.4 2.1,.9z"/>
<path color="#0e2" d="M231.8,137.1l-.6,7.2-4.7-12.8 .4-4.5z"/>
<path color="#2e1" d="M232.3,129.7l-.5,7.4-4.9-10.1 .5-4.5z"/>
<path color="#6e0" d="M232.8,122.4l-.5,7.3-4.9-7.2 .4-4.5z"/>
<path color="#9e0" d="M233.3,114.9l-.5,7.5-5-4.4 .5-4.6z"/>
<path color="#f00" d="M128.9,62.6l-.4-1.9-.3-1.9-.3-1.9-.3-2-.3-1.9-.3-.2-.4-.2-.3-.2-.4-.2-.3-.2-.6-1.8-.6-1.8-.6-1.8-.6-2.2-.6-2.2-.6-2.2-.5,1-.6,1.1-.5,1-5.6,4.4 .6,.5 .6,.5 .5,.6 .6,2.8 .7,2.9 .6,2.8 .6,1 .5,.9 .6,1 .3-2.7 .3-2.7 .3-2.7 .3-2.7 .3-2.7 .4,4 .3,4 .3,4 .4,4 .3,3.9zM133.2,66l-.4-3.7-.3-3.8-.9-2.6-.9-2.5-.3,2.2-.3,2.2-.3,2.3-.3,2.2-5.5,5.5 .3-3.1 .3-3.2 .3-3.1 .3-3.2 .9,3.4 .9,3.4 .3,3.6 .4,3.6zM151.3,60.8l-.3-3.8-.3-3.7-.4-3.8-.3-3.8-.3,3.1-.2,3.1-.3,3.1-.3,3-.3,3.1-.3,3-.4,.3-.4,.3-.5,.2-.4,.3-.3,8.4-5.5-4 .2-5.9 .5,2.6 .5,2.5 .4,2.6 .5,2.6 .3-4.1 .2-4.1 .3-4.2 .2-4.1 .3-4.2 .3-4.1 .3,6.5 .4,6.5 .3,6.5 .4,6.5zM161.3,64.6l-.3-7.9-.4-2.5-.4-2.4-.3-2.4-5.6-2 .4,3.8 .4,3.8 .4,3.8 .3,11.9zM211.5,75.2l-.2-8.2-.4,3.2-.4,3.2-.4,3.2-.3,3.2-.4,3.2-.4,3.1-.4,2.7-5.1-15.9 .4-4.9 .3,1.3 .4,1.3 .3,1.4 .3,1.3 .3,1.3 .3,1.4 .2,9z"/>
<path color="#f20" d="M129.5,62.3l-.3,2.2-.3-1.9-5.6,4.3 .4,4 .3-3.1zM133.5,69.8l-.3-3.8-5.5,3.2 .3,3.6zM161.6,72.5l-.3-7.9-5.5,6.1 .4,11.8zM172.1,77.5l-.3,.7-.3,.8-.3,.7-5.5-12 .3,2.6 .3,2.5 .4,2.6zM211.7,83.2l-.2-8-5.5,9.8 .3,9z"/>
<path color="#f60" d="M133.8,73.5l-.3-3.7-5.5,3 .3,3.6zM172.8,85l-.3-3.8-5.5-2.1 .4,3.8zM178,86.4l-.3-4.8-.3,2.5-5.4-.2 .3-4.9 .3,4.8zM221.5,93l-.3-3.1-.8,3.6-5.3,2.5 .8-3.5 .2,4.1z"/>
<path color="#d00" d="M159.5,47l-.4-2.5-.3,3-5.5-3.5 .2-4.3 .4,3.9z"/>
<path color="#e00" d="M159.9,49.4l-.4-2.4-5.6-3.4 .4,3.8z"/>
<path color="#f90" d="M161.9,80.3l-.3-7.8-5.4,10 .3,11.7zM173.2,88.7l-.4-3.7-5.4-2.1 .4,3.7zM178.3,91.2l-.3-4.8-5.4-2.6 .3,4.9zM211.9,91.3l-.2-8.1-5.4,10.8 .2,9zM221.7,96l-.2-3-5.4,3.6 .3,4.1zM236.4,99.5l-.7-1.6-.8,2.7-5.1-2.5 .8-2.4 .6,3.2z"/>
<path color="#f40" d="M172.5,81.2l-.4-3.7-5.4-2.1 .3,3.7zM199.6,77.7l-.5-3.2-.4,5.3-5.4,10.5 .3-2.9 .5,3.7z"/>
<path color="#fe0" d="M212.1,99.3l-.2-8-5.4,11.7 .2,8.9zM222.3,101.9l-.3-3-5.3,5.9 .2,4.1zM243.9,110.3l-2.1-.9-2.1-2.4-5.2,1.9 2.1,2.9 2.2,.4z"/>
<path color="#df0" d="M212.3,107.2l-.2-7.9-5.4,12.6 .2,8.8z"/>
<path color="#fc0" d="M222,98.9l-.3-2.9-5.3,4.7 .3,4.1zM234.1,103.3l-.7,2.6-.7-.5-5.1-5.7 .7,3 .7-2.3zM239.7,107l-1-2.2-1-2.2-5.2,2.7 1,1.8 1,1.8z"/>
<path color="#2e1" d="M224.9,125.2l-.3-1.2-5.5,15.3 .4-3.5z"/>
<path color="#4e0" d="M225.9,129l-.4-1.3-.3-1.2-.3-1.3-5.4,10.6 .4-3.5 .4-3.5 .5-3.5z"/>
<path color="#6e0" d="M226.5,131.5l-.3-1.3-.3-1.2-5.1-3.7 .4-3.5 .4-3.6z"/>
<path color="#8e0" d="M226.9,127l-.4,4.5-4.9-13.3 .4-1.5z"/>
<path color="#9e0" d="M227.4,122.5l-.5,4.5-4.9-10.3 .4-1.6z"/>
<path color="#fa0" d="M232.7,105.4l-.7-.6-.7-.5-.5,0-.5,0-5.2-3.1 .6-3.8 .6-3.8 .7,3 .6,3.1zM237.7,102.6l-.7-1.5-.6-1.6-5.2-.6 .6,3.2 .7,3.2z"/>
<path color="#ef0" d="M254.8,112.7l-2.2-.4-2.2-.4-2.2-.1-2.1-.8-2.2-.7-5.1,1.9 2.1,.7 2.2,.7 2.1,.2 2.2,.5 2.2,.4z"/>
<path fill="none" stroke="#8c8c8c" stroke-width=".4" stroke-opacity=".7" d="M238.4,109.1L228.3,102.7M218,100.8L207.1,129.5M198,113.6L187.4,119.7M179.2,98.2L168.5,94M161,113.1L150.3,108.9M143.5,90.2L132.5,86.3"/>
<path fill="none" stroke="#4a4a3a" stroke-width=".45" stroke-opacity=".8" d="M249.6,114.7l-2.2-.4-2.2-.5-2.1-.2-2.2-.7-2.1-.7-2.2-.4-2.1-2.9-2-3.6-1.9-9.6-2.3,7-2-9.1-2.4,15.1-2.3,9.5-2.5,21.1-1.6-22.2-1.6-24.6-2.3,10.6-2.4,20.8-1.9-8.6-2.2,14.2-1.3-53.5-1.9-8-2.4,29.1-2.1,10-1.9-13-2.1,8.3-1.8-15-2.1,17.4-2-2.1-2.1,17-1.7-31.3-1.9,.2-2,14-1.9-.7-1.9-5.1-2,11.2-1.9-.1-1.8-28.9-1.9,29.1-1.9-14.1-1.8-18.6-1.9-15.5-1.9,28.5-1.8,14.3-1.8,22.3-1.8,3.7-2-69.9-2-19.1-1.7,25.2-1.5,44-2-24.7-1.7,3.8-2.1-38.8-1.6,24.8-1.9-10.3-1.4,35.1-1.8,.1-2-27-1.4,25.6-1.9-11.2-1.2,41.2-2.3-43.9-2-21.6-1.8-6.8-1.5,15.7-2.1-23.9-1.5,13.5-1.7-2.9-1.9-8.5-1.7-1.6"/>
<path color="#f00" d="M127.3,65.6l-.3-3.6-.3-1.1-.3-1.2-.3-1.1-.3-1.1-.3-1.1-.3-1.2-.3,3.2-.3,3.1-.3,3.2-.3,3.1-.3,3.1-.4-4-.3-3.9-.4-4-.3-4-.3-4-.4-4-.4,3.4-.3,3.3-.4,3.4-.4,3.4-.3-.6-.4-.6-.3-.5-.4-.6-.3-.6-.6-2.8-.7-2.9-.6-2.8-5.9-10.2 .6,1.2 .6,1.3 .6,1.2 .4,2.2 .4,2.1 .3,2.2 .4,2.1 .4,2.2 .4-3.2 .3-3.2 .4-3.3 .4-3.2 .3,3.8 .4,3.7 .3,3.8 .4,3.7 .3,3.8 .4,3.7 .3-1.8 .3-1.7 .3-1.8 .3-1.8 .4-1.8 .3,2.5 .3,2.5 .4,2.5 .3,2.5 .3,2.5 .3,2.4 .4,2zM145.5,68.7l-.3-6.5-.4-6.5-.3-6.5-.3,4.1-.3,4.2-.2,4.1-.3,4.2-5.5,15.2 .3-6 .2-6.1 .3-6.2 .2-6.1 .4,6.4 .3,6.5 .4,6.4zM155.8,70.7l-.3-11.9-.4-3.8-.4-3.8-.4-3.8-5.6,7 .4,3.1 .4,3.1 .4,3.1 .4,11.5zM206,85l-.2-9-.3-1.4-.3-1.3-.3-1.3-.3-1.4-.4-1.3-.3-1.3-.4,4.9-.4,4.9-.4,4.8-5.4-1.7 .3,.4 .4,.4 .3,.3 .3-1.4 .4-1.4 .4-1.5 .3-1.5 .4-1.4 .3-1.5 .3,9.2z"/>
<path color="#f20" d="M127.7,69.2l-.4-3.6-5.5,5.4 .3,2zM167,79.1l-.3-3.7-.4-2.6-.3-2.5-.3-2.6-.3-2.6-5.5,26.5 .3-4.1 .3-4.1 .3-4.2 .3-4.1 .4,1.6z"/>
<path color="#f40" d="M128,72.8l-.3-3.6-5.6,3.8 .3,2zM145.9,75.2l-.4-6.5-5.5,7.2 .3,6.4zM156.2,82.5l-.4-11.8-5.5,4.5 .3,11.4zM165.4,65.1l-.3-2.6-.3-2.6-.3,4.8-5.5,34.2 .3,.8 .3-4.1 .3-4zM167.8,86.6l-.4-3.7-.4-3.8-5.5-2.4 .4,1.6 .3,1.6zM206.3,94l-.3-9-5.3-2.5 .2,9.1z"/>
<path color="#f60" d="M128.3,76.4l-.3-3.6-5.6,2.2 .3,2zM136.1,76.4l-.3-4.5-5.6,3.3 .4,5.2zM168.2,90.3l-.4-3.7-5.6-6.7 .4,1.6z"/>
<path color="#f90" d="M128.7,80l-.4-3.6-5.6,.6 .3,2zM168.5,94l-.3-3.7-5.6-8.8 .4,1.6zM172.6,83.8l-.3-4.8-5.5,9.9 .3,6zM231.2,98.9l-.6-3.2-.8,2.4-.8,2.3-.7,2.3-.5-2.2-.5-2.3-.5-2.3-.5-2.3-.6,3.8-5.4,4.1 .6-.3 .5-.5 .6-.5 .5-.4 .5-.5 .7,.6 .7,.6 .7,.6 .7,2.4z"/>
<path color="#d00" d="M153.9,43.6l-.4-3.9-.2,4.3-5.7,5.8 .3-1.6 .4,3.1z"/>
<path color="#e00" d="M154.3,47.4l-.4-3.8-5.6,7.7 .4,3.1z"/>
<path color="#fa0" d="M168.8,96.3l-.3-2.3-5.5-10.9 .3,3.6zM172.9,88.7l-.3-4.9-5.5,11.1 .3,6.1zM206.5,103l-.2-9-5.4-2.4 .2,9.1zM231.8,102.1l-.6-3.2-5.4,4.6 .7,2.4z"/>
<path color="#fe0" d="M206.7,111.9l-.2-8.9-5.4-2.3 .2,9zM216.4,100.7l-.3-4.1-5.6,14.7 .3,3.6zM240.9,112.9l-2.1-.7-2.2-.4-1-1.5-1.1-1.4-5.2,.4 1,2.1 1,2.1 2.2-.1 2.1,1.4z"/>
<path color="#fc0" d="M216.1,96.6l-.2-4.1-5.6,15.1 .2,3.7zM234.5,108.9l-2-3.6-.7-3.2-5.3,3.8 .6,2.4 2.2,1z"/>
<path color="#4e0" d="M219.5,135.8l-.4,3.5-.3-3.7-.2-3.7-5.2-5.9 .4-.8 .3-.8 .4-.4z"/>
<path color="#6e0" d="M220.3,128.8l-.4,3.5-.4,3.5-5-11.8 .3-.4 .4-.4z"/>
<path color="#8e0" d="M221.2,121.8l-.4,3.5-.5,3.5-5.1-5.6 .3-.4 .4-.3z"/>
<path color="#ef0" d="M249.6,114.7l-2.2-.4-2.2-.5-2.1-.2-2.2-.7-5.3,1.9 2.2,.7 2.2,.3 2.2,.5 2.2,.3z"/>
<path color="#b00" d="M112.8,44.8l-.4-2.2-.6-1.2-.6-1.3-.6-1.2-.4,1.4-6-8.6 .3-3.2 .6-.4 .6-.5 .5-.4 .5,3.8z"/>
<path color="#c00" d="M113.2,46.9l-.4-2.1-6.1-13.8 .4,3.8zM116.1,44.3l-.3-3.8-.4,3.2-5.9-6.7 .3-3.1 .4,3.5z"/>
<path color="#d00" d="M113.5,49.1l-.3-2.2-6.1-12.1 .4,3.8zM116.5,48l-.4-3.7-5.9-6.9 .3,3.5z"/>
<path color="#e00" d="M113.9,51.2l-.4-2.1-6-10.5 .4,3.8zM115,47l-.3,3.2-6-7.1 .4-3.1zM116.8,51.8l-.3-3.8-6-7.1 .4,3.5z"/>
<path color="#f00" d="M114.7,50.2l-.4,3.2-.4-2.2-6-8.8 .5,3.7 .3-3zM121.1,66.6l-.3-2.5-.3-2.5-.4-2.5-.3-2.5-.3-2.5-.4,1.8-.3,1.8-.3,1.8-.3,1.7-.3,1.8-.4-3.7-.3-3.8-.4-3.7-5.9-7.4 .4,3.5 .3,3.5 .4,3.5 .3-.4 .3-.3 .4-.4 .3-.4 .4-.4 .3,3.9 .4,3.9 .3,3.8 .4,3.9 .4,3.8zM139.6,69.5l-.3-6.5-.4-6.4-.2,6.1-.3,6.2-5.6,11.5 .2-8.2 .2-8.1 .4,6.4 .4,6.4zM150.3,75.2l-.4-11.5-.4-3.1-.4-3.1-.4-3.1-.4-3.1-.4-3.1-.3,1.6-.2,1.7-.3,1.6-.3,1.6-.3,1.6-.3,1.6-.3,8.5-.2,8.4-5.7-5 .2-9.5 .2-9.5 .3,1 .3,1 .3,1 .4,1 .3,1 .3,1 .4,2.3 .4,2.4 .4,2.3 .3,2.4 .4,2.4 .4,11.1zM163,83.1l-.4-1.6-.4-1.6-.3-1.6-.4-1.6-.4-1.6-5.6-.3 .3-.6 .4-.6 .4-.5 .4-.6 .3-.6zM197.6,81.3l-.3-.4-.3-.4-.4-.3-.3-.4-.4,2.9-.4,2.9-.3,2.9-.4,2.9-5.4-12.9 .4-4.1 .4-4.1 .3-4.2 .4-4.2 .3,5.8 .3,5.7 .3,5.8 .3,5.7zM200.7,82.5l-.3-9.2-.3,1.5-.4,1.4-.3,1.5-.4,1.5-5.6,8.6 .4-4.3 .4-4.2 .3-4.3 .4-4.3 .3,9.2z"/>
<path color="#f20" d="M121.4,69l-.3-2.4-5.6,5.7 .3,3.8zM163.3,86.7l-.3-3.6-5.7-11.2 .4,4.9zM190.8,90.8l-.7-.1-5.4-12 .6,2.9zM198,81.7l-.4-.4-5.5,3.6 .2,5.7zM200.9,91.6l-.2-9.1-5.5-2.6 .2,9.3z"/>
<path color="#f40" d="M122.4,75l-.3-2-.3-2-.4-2-5.6,7.1 .3,.4 .3,.4 .3,.4zM140,75.9l-.4-6.4-5.6,7.4 .4,6.4zM163.6,90.3l-.3-3.6-5.6-9.9 .3,4.9zM192.6,92.4l-.5-1.6-.6,0-.7,0-5.5-9.2 .7,2.9 .6,2.9 .5-.1z"/>
<path color="#f60" d="M123,79l-.3-2-.3-2-5.7,2.3 .3,.4 .3,.4zM127.2,82.4l-.4-2.8-.2,6.5-5.8-7.3 .2-6.1 .4,3.4zM150.6,86.6l-.3-11.4-5.7,4.5 .4,11.1zM223.7,99.9l-.7-.6-.5,.5-5.4-.8 .6-3.3 .7,3.7z"/>
<path color="#f90" d="M127.6,85.2l-.4-2.8-5.8-6.3 .4,3.4zM201.1,100.7l-.2-9.1-5.5-2.4 .3,9.2zM225.1,101.1l-.7-.6-.7-.6-5.3-.5 .6,3.6 .6,3.6z"/>
<path color="#fc0" d="M201.3,109.7l-.2-9-5.4-2.3 .2,9.1zM230.3,111.4l-1-2.1-2.2-1-.6-2.4-.7-2.4-5.5,4.7 .7,1.6 .7,1.5 2.2-1.6 1,2.7z"/>
<path color="#4e0" d="M211.7,125.7l-.3-3.6-5.6,13.3 .3,3.2zM212.7,127.7l-.4,.8-5.5,7.8 .4-5.4z"/>
<path color="#2e1" d="M212.3,128.5l-.3,.9-.3-3.7-5.6,12.9 .3,3.1 .4-5.4z"/>
<path color="#6e0" d="M213,126.9l-.3,.8-5.5,3.2 .5-5.5z"/>
<path color="#fa0" d="M225.8,103.5l-.7-2.4-5.5,5.5 .7,1.6z"/>
<path color="#fe0" d="M235.6,114.8l-2.1-1.4-2.2,.1-1-2.1-5.4,1 1,2.8 2.2-.6 2.2,2.1z"/>
<path color="#ef0" d="M244.4,116.6l-2.2-.3-2.2-.5-2.2-.3-2.2-.7-5.3,1.9 2.1,.7 2.2,.3 2.2,.6 2.3,.3z"/>
<path fill="none" stroke="#8c8c8c" stroke-width=".4" stroke-opacity=".7" d="M228.3,102.7L217.7,95.7M207.1,129.5L196.4,125.5M187.4,119.7L176.5,135.3M168.5,94L157.3,71.9M150.3,108.9L139.1,107M132.5,86.3L121,72.7"/>
<path fill="none" stroke="#4a4a3a" stroke-width=".45" stroke-opacity=".8" d="M239.1,118.6l-2.3-.3-2.2-.6-2.2-.3-2.1-.7-2.2-2.1-2.2,.6-2-5.5-2.2,1.6-2.1-4.7-1.9-10.9-2.4,13.2-1.9-12.9-2.6,30-1.8-17.1-2.6,32.8-1.8-18.8-2.1,4-2.2,9.3-1.9-6.4-2-4.3-1.5-54.8-2.3,25.5-1.7-34.3-2.2,24.9-2.1,.6-1.9-8.7-2.3,36.5-1.8-18.6-2.1,27.8-2,10.9-1.8-44.8-2,3.5-1.9,19.3-2-17.2-1.9-6.3-1.9,24.8-1.9,27.5-1.9-43.2-1.9,2.1-2-29.1-1.8,2.9-1.6,64.2-2.1-37-1.9-21.5-1.6,43.4-1.7,10.4-2.4-65.7-1.9-11.8-1.9-6-1.3,56.2-1.6,16-2-20.8-2.3-38.1-1.1,48.2-1.9-10.9-2-12.2-1.4,23.8-2.2-34.4-1.6,11.1-2-17-1.2,36-2.2-30.3-1.8-2.3-2.1-23.1-1.7,1.9-2.2-21-1.4,12.2-2.2-18.9-1.7,1.3-1.4,12.6"/>
<path color="#b00" d="M106.7,31l-.5-3.8-.8,.6-.9,.7-.3,3.2-5.7,8.6 .3-2.4 .9,1 .9,1 .4,2.4z"/>
<path color="#c00" d="M107.1,34.8l-.4-3.8-5.7,11.3 .4,2.5z"/>
<path color="#d00" d="M107.5,38.6l-.4-3.8-5.7,10 .4,2.4z"/>
<path color="#e00" d="M107.9,42.4l-.4-3.8-5.7,8.6 .4,2.5z"/>
<path color="#f00" d="M115.5,72.3l-.4-3.8-.4-3.9-.3-3.8-.4-3.9-.3-3.9-1.7,1.9-.4-3.5-.3-3.5-.4-3.5-.4-3.5-.3-3.5-.4-3.5-.2,2.1-.3,2-.2,2-.3,2.1-.2,2-.2,2-.5-3.7-5.7,7.3 .4,2.4 .3,2.4 .4,2.4 .3,2.4 .4,2.4 .3,2.4 .3,2.4 .3-2.2 .2-2.2 .2-2.1 .3-2.2 .2-2.2 .3-2.1 1.7-.1 .3,2.9 .4,2.9 .3,2.8 .4,2.9 .3,2.8zM144.2,68.6l-.4-2.4-.3-2.4-.4-2.3-.4-2.4-.4-2.3-.6-2-.7-2-.6-2-.2,9.5-.2,9.5-5.8,3.7 .2-8 .2-8.1 .7,2.5 .6,2.6 .7,2.5 .4,2.9 .4,3 .4,2.9 .4,2.9 .3,3zM157.7,76.8l-.4-4.9-.3,.6-.4,.6-.4,.5-.4,.6-5.7,9.5 .4-1.9 .4-1.9 .3-1.9 .4-1.9 .3,3.6zM187.4,87.2l-.4,.1-.4,.1-.3-1.4-.3-1.5-.3-1.4-.4-1.5-.3-1.4-.3-1.5-5.7,9 .3-1.6 .4-1.5 .3-1.6 .4-1.6 .3-1.6 .3-1.5 .4,1.9 .4,1.9zM192.1,84.9l-.3-5.7-.3-5.8-.3-5.7-.3-5.8-.4,4.2-.3,4.2-.4,4.1-.4,4.1-.4,4.2-5.6,2.6 .3-2.7 .4-2.6 .3-2.7 .4-2.7 .4-2.6 .3,3.5 .3,3.6 .3,3.5 .3,3.5zM195.4,89.2l-.2-9.3-.3-9.2-.4,4.3-.3,4.3-.4,4.2-.4,4.3-5.6-1.6 .4-3.5 .3-3.6 .4-3.5 .4-3.5 .2,8.2 .3,8.2z"/>
<path color="#f20" d="M115.8,76.1l-.3-3.8-6-4.6 .4,2.9zM121.3,75.6l-.3-2.9-5.9,.2 .4,4zM133.6,70.5l-.4-6.4-5.5,20.8 .4,4.4zM144.6,79.7l-.4-11.1-5.7,11.1 .4,9.1zM155.8,74.2l-.3,.6-5.7,10.7 .3-1.8zM158,81.7l-.3-4.9-5.8,2.9 .4,3.5zM189,82.7l-.3,4.1-.5,.1-.4,.1-.4,.2-5.6-5.1 .4,2 .4,1.9 .4,1.9 .4-2.6zM192.3,90.6l-.2-5.7-5.7,1.2 .3,3.5z"/>
<path color="#f40" d="M116.9,77.5l-.4-.4-.3-.5-.4-.5-5.9-5.5 .4,2.1 .4,2.1 .3,2.1zM121.6,78.4l-.3-2.8-5.8,1.3 .4,3.9zM195.7,98.4l-.3-9.2-5.6-.7 .3,8.2z"/>
<path color="#f60" d="M124.9,84.3l-.3-5.7-5.9-3.5 .4,4.8zM134,76.9l-.4-6.4-5.5,18.8 .3,4.5zM150.5,87.7l-.3-3.6-5.8-1.6 .4,3.1zM167.6,91.9l-.4-1.1-5.7-8.2 .4,4.8zM218.2,98.5l-.5-2.8-.6,3.3-5.6,3.2 .6-1.6 .5,3.4z"/>
<path color="#fa0" d="M145,90.8l-.4-11.1-5.7,9.1 .4,9zM215.9,105.6l-.6,3.3-.4-3.3-.5-3.2-5.6,3.2 .5,.5 .6,.6 .5-1.5zM219.2,103.9l-.5-2.7-5.6,6.1 .4,3.4z"/>
<path color="#f90" d="M168.2,94l-.3-1.1-.3-1-5.7-4.5 .3,4.7 .3,4.8zM214.4,102.4l-.5-3.2-.5-3.2-.4,5-5.7,7.8 .5-4.4 .5,.6 .5,.6zM218.7,101.2l-.5-2.7-5.6,5.5 .5,3.3z"/>
<path color="#4e0" d="M202.5,126.9l-.4,1.5-.3,1.6-.4,1.6-.4,1.5-.3,1.6-.4,1.5-5.4-9.7 .4,1.6 .3,1.6 .3,1.6 .3,1.5 .4,1.6 .3,1.6zM206.8,136.3l-.4,5.4-.4-3.8-5.3-12.1 .4,3.2 .4-1.1z"/>
<path color="#6e0" d="M207.2,130.9l-.4,5.4-5.3-8.4 .3-1z"/>
<path color="#8e0" d="M207.7,125.4l-.5,5.5-5.4-4 .4-1.1z"/>
<path color="#fc0" d="M220.7,109l-1.1-2.4-.4-2.7-5.7,6.8 .5,3.3 1.1,.7zM224.9,112.4l-1-2.7-1.1,.8-5.5,3.3 1.1-1.6 1,2.4z"/>
<path color="#fe0" d="M222.8,110.5l-1.1,.8-1-2.3-5.6,5.7 1.1,.7 1.1-1.6zM230.3,116.7l-2.2-2.1-2.2,.6-1-2.8-5.5,2.2 1.1,2.5 2.1,.2 2.2,1.3z"/>
<path color="#ef0" d="M239.1,118.6l-2.3-.3-2.2-.6-2.2-.3-2.1-.7-5.5,1.9 2.2,.6 2.2,.5 2.2,.6 2.2,.3z"/>
<path color="#d00" d="M99.7,38.9l-.9-1-.3,2.4-5.8,8.7 .4-1.6 .9,2.6z"/>
<path color="#e00" d="M101,42.3l-.4-2.4-.9-1-5.7,11.1 .9,2.6 .4,1.1z"/>
<path color="#f00" d="M103.6,59.3l-.3-2.4-.4-2.4-.3-2.4-.4-2.4-.4-2.5-.4-2.4-.4-2.5-5.7,11.4 .3,1.2 .4,1.1 .4,1.1 .3,1.1 .5,6.9 .5,6.8 .4,6.7zM110.7,74.8l-.4-2.1-.4-2.1-.4-2.9-.3-2.8-.4-2.9-.3-2.8-.4-2.9-.3-2.9-1.7,.1-.3,2.1-.2,2.2-.3,2.2-.2,2.1-5.4,21.3 0-7.8 .1-7.8 .1-7.9 .1-7.9 1.8,1.8 .3,1.8 .4,1.9 .3,1.9 .3,1.8 .4,1.9 .3,1.9 .4,3.7 .5,3.8zM137.8,73.8l-.4-2.9-.4-3-.4-2.9-.7-2.5-.6-2.6-.7-2.5-.2,8.1-.2,8-5.8,3.8 .2-6.6 .2-6.6 .6,3.1 .7,3 .7,3.1 .4,3.6 .4,3.5 .4,3.5zM151.9,79.7l-.3-3.6-.4,1.9-5.8,5.7 .4-3.2 .3,2.1zM161.9,87.4l-.4-4.8-.3-4.7-.3,7.2-5.8-9 .2-10.5 .4,8.6 .4,8.6zM182.6,86l-.4-1.9-.4-2-.4-1.9-.4-1.9-.3,1.5-.3,1.6-.4,1.6-.3,1.6-5.8,2.9 .3-4.6 .4-4.7 .4-4.6 .3-4.7 .4,4 .4,4.1 .4,4 .4,4.1zM186.4,86.1l-.3-3.5-.3-3.5-.3-3.6-.3-3.5-.4,2.6-.4,2.7-.3,2.7-.4,2.6-.3,2.7-5.8,2.6 .4-1.1 .3-1.2 .4-1.1 .3-1.2 .3-1.2 .4,1.3 .3,1.4 .3,1.3 .4,1.3zM189.8,88.5l-.3-8.2-.2-8.2-.4,3.5-.4,3.5-.3,3.6-.4,3.5-.4,3.5-5.7-2.4 .4-2.8 .3-2.7 .4-2.8 .4-2.7 .3-2.8 .3,7.2 .3,7.1z"/>
<path color="#f20" d="M104,61.7l-.4-2.4-5.5,19.3 .5,6.8zM111,76.9l-.3-2.1-6-2.3 .4,3.7zM115.5,76.9l-.4-4-.2,4.1-5.9-1.9 .2-2 .4,5.1zM119.1,79.9l-.4-4.8-.2,3.6-6-1.8 .2-5.3 .4,3.9zM138.2,76.7l-.4-2.9-5.8,10.1 .4,3.5zM144.4,82.5l-.3-3.2-.3,5.5-5.8-3.2 .2-3.5 .4,2.8zM152.3,83.2l-.4-3.5-5.8,2.9 .4,2.2zM183.4,85.3l-.4,2.6-.4-1.9-5.7-.9 .4,4 .3-1.2zM187.4,89.7l-.4,3.5-.3-3.6-.3-3.5-5.7,1.3 .3,1.3 .4,1.3 .3-2.7z"/>
<path color="#f40" d="M104.3,64.1l-.3-2.4-5.4,23.7 .4,6.7zM119.4,84.8l-.3-4.9-6-4.4 .3,3.8zM138.5,79.7l-.3-3-5.8,10.7 .4,3.5zM144.8,85.6l-.4-3.1-5.8-1.6 .3,2.7zM152.6,86.7l-.3-3.5-5.8,1.6 .3,2.1zM162.2,92.1l-.3-4.7-5.8-4.6 .3,8.5zM190.1,96.7l-.3-8.2-5.7-.7 .3,7.1z"/>
<path color="#f90" d="M104.6,66.5l-.3-2.4-5.3,28 .5,6.7zM119.8,89.6l-.4-4.8-6-5.5 .4,3.9zM138.9,88.8l-.4-9.1-5.7,11.2 .4,7zM162.5,96.9l-.3-4.8-5.8-.8 .4,8.5zM190.4,104.8l-.3-8.1-5.7-1.8 .3,7.1zM212.6,104l-.5-3.4-.6,1.6-.5,1.5-.6,1.5-.5,1.5-5.6-2.2 .5,.3 .6,.3 .5,.2 .5,.3 .5,4z"/>
<path color="#f60" d="M115.9,80.8l-.4-3.9-5.9,1.3 .4,5zM145.1,88.8l-.3-3.2-5.9-2 .3,2.7zM152.9,90.2l-.3-3.5-5.8,.2 .3,2.2z"/>
<path color="#8e0" d="M205.7,126.1l-.4,4.2-5.7,4.5 .4-3.6z"/>
<path color="#fa0" d="M209.9,106.7l-.6-.6-.5-.5-.5-.6-.5-.6-5.8,8.6 .6-2.1 .6-2.1 .5-2.1 .6-2.2zM213.1,107.3l-.5-3.3-5.7,5.6 .5,3.9z"/>
<path color="#fc0" d="M213.5,110.7l-.4-3.4-5.7,6.2 .5,4zM219.4,114.6l-1-2.4-1.1,1.6-5.7,3.3 1.2-2.4 1,2.2z"/>
<path color="#fe0" d="M214,114l-.5-3.3-5.6,6.8 .4,3.9zM217.3,113.8l-1.1,1.6-1.1-.7-5.7,5.8 1.1-1 1.1-2.4zM229.2,119.7l-2.2-.5-2.2-.6-2.2-1.3-2.1-.2-1.1-2.5-5.6,2.3 1.1,2.2 2.2,.9 2.1,.5 2.2,.6 2.2,.5z"/>
<path color="#ef0" d="M215.1,114.7l-1.1-.7-5.7,7.4 1.1-.9zM233.6,120.6l-2.2-.3-2.2-.6-5.6,1.9 2.3,.7 2.2,.4z"/>
<path fill="none" stroke="#8c8c8c" stroke-width=".4" stroke-opacity=".7" d="M217.7,95.7L206.4,105.6M196.4,125.5L185.3,116.1M176.5,135.3L165.2,142.1M157.3,71.9L145.8,80.5M139.1,107L127.5,103.4M121,72.7L109.2,73.1"/>
<path fill="none" stroke="#4a4a3a" stroke-width=".45" stroke-opacity=".8" d="M228.1,122.7l-2.2-.4-2.3-.7-2.2-.5-2.2-.6-2.1-.5-2.2-.9-2.1-4.4-2.3,4.8-2.2,1.9-1.9-15.8-2.1-1.1-2.3,8.5-2.4,21.8-2.1,1.6-1.8-20.5-2-12.7-2.5,42.1-1.8-28.8-2-14.1-2.1,13.7-1.8-42.6-2.1,16.5-2.1-7.9-2,7-2-20.2-2.1,27.8-2.1,25.9-1.9-32.7-2,21.8-2,30.4-1.9-39.2-2-6.1-1.9,31.2-1.9-11.4-2.2-51-1.6,61.7-1.9-4-2.1-23.6-1.9-6.3-2-12.9-1.8,15.9-1.3,60.4-2.4-62.4-2.1-16.3-1.6,20.8-1.5,33.6-2.3-41.6-2-17.6-2-9.2-1.3,39.3-1.9-9.8-1.4,27.3-2-15.2-1.3,31.4-2.3-32.2-1.8-3.1-1.9-7-2.2-23.2-1.1,31.7-2.4-30.2-1.5,11.7-1.7-1.2-2.2-18.6-2-11.2-1.8-1.8-.5,46.8-2.8-40.6-1.8-5.6-1.8-5.2-1.6,6.5"/>
<path color="#f00" d="M97.7,71.9l-.5-6.8-.5-6.9-.3-.9-.3-.9-.3-1-.3-.9-.3-.9-.3-1-.9-2.6-.9-2.6-.8,3.3-.8,3.2-6,1.8 .8-1.7 .8-1.6 .8-.2 .9-.2 .3,2.3 .4,2.3 .3,2.3 .4,2.3 .3,2.2 .4,2.3 .4,5 .4,5zM104.7,72.5l-.5-3.8-.4-3.7-.3-1.9-.4-1.9-.3-1.8-.3-1.9-.4-1.9-.3-1.8-.9-.9-.9-.9-.1,7.9-.1,7.9-.1,7.8-6-1 .1-7.1 .1-7.1 .1-7.1 .8-.6 .9-.6 .3,3.2 .4,3.2 .4,3.2 .4,3.3 .3,3.2 .4,3.2 .4,.8 .3,.8zM113.1,75.5l-.4-3.9-6,2.7 .3,1.5zM131.1,76.3l-.3-3-.7-3.1-.7-3-.6-3.1-.2,6.6-.2,6.6-6,4.8 .3-4.1 .2-4.2 .6,.4 .7,.5 .6,.4 .4,4zM155.7,74.2l-.4-8.6-.2,10.5-5.9,16.1 .3-7 .4,3.8zM176.9,85.7l-.3-3.3-.3-3.4-.3-3.4-.4-3.3-.3-3.4-.3,4.7-.4,4.6-.4,4.7-.3,4.6-5.9,.6 .4-4.5 .3-4.6 .4-4.6 .3-4.6 .3,4.4 .4,4.5 .3,4.4 .3,4.4 .4,4.4zM180.3,86.1l-.5-2-.5-2-5.8,11.4 .5-.6 .5-.5zM184.1,87.8l-.3-7.1-.3-7.2-.4,3.3-.5,3.3-.4,3.3-.4,3.3-5.9,3 .5-1.4 .4-1.5 .4-1.5 .4-1.5 .3,4.9 .4,4.9z"/>
<path color="#f20" d="M105.5,79.9l-.4-3.7-.4-3.7-6.1,.5 .4,.8 .4,.7zM113.4,79.3l-.3-3.8-6.1,.3 .4,1.5zM131.4,79.2l-.3-2.9-5.9,2.8 .3,4zM146.1,82.6l-.3-2.1-.4,3.2-5.9,4.1 .4-1.3 .4,3.8zM156.1,82.8l-.4-8.6-5.8,14.8 .3,3.8zM179.3,82.1l-1,3.5-1,3.5-.4-3.4-5.8,6.2 .3,4.4 1-1.4 1.1-1.4zM181.8,86.7l-.4,3.3-.5-2-.6-1.9-5.8,6.3 .5-.6 .5-.6 .4-1.5z"/>
<path color="#f40" d="M106,83.6l-.5-3.7-6.1-5.4 .3,.8zM113.8,83.2l-.4-3.9-6-2 .3,1.5zM131.8,82.1l-.4-2.9-5.9,3.9 .4,4.1zM138.6,81.4l-.4-3.3-.2,3.5-.3,3.5-5.9,4.4 .3-1.2 .3-1.2 .4,3.7zM146.5,84.8l-.4-2.2-5.8,7.7 .3,3.8zM184.4,94.9l-.3-7.1-5.8,5.8 .3,4.8z"/>
<path color="#f60" d="M106.5,84l-.3-.2-.2-.2-6.3-8.3 .4,3.9 .4,3.8zM109.6,78.2l-.4-5.1-.4,3-5.6,14.9 .3-2.5 .4,4.4zM114.5,90.9l-.3-3.8-.4-3.9-6.1-4.4 .3,1.6 .4,1.5zM132.1,85l-.3-2.9-5.9,5.1 .4,4zM139,84.6l-.4-3.2-5.8,9.4 .4,3.6zM146.8,86.9l-.3-2.1-5.9,9.3 .4,3.9zM156.4,91.3l-.3-8.5-5.9,10 .3,3.7zM204.8,104.8l-.5-.3-.6,2.2-5.6-5.1 .5,.6 .5,1.9z"/>
<path color="#f90" d="M132.5,88l-.4-3-5.8,6.2 .3,4zM147.1,89.1l-.3-2.2-5.8,11.1 .3,3.8zM156.8,99.8l-.4-8.5-5.9,5.2 .4,3.8zM206.4,105.6l-.5-.3-.5-.2-.6-.3-5.7-.7 .5,2 .5,1.9 .6,1.9z"/>
<path color="#fa0" d="M147.5,91.2l-.4-2.1-5.8,12.7 .4,3.8zM206.9,109.6l-.5-4-5.7,4.3 .4,3.8z"/>
<path color="#6e0" d="M191.6,138.4l-.4,6.9-.3-4.8-.3-4.8-5.7-6.2 .4-1.3 .4-1.4 .3-3zM200,131.2l-.4,3.6-5.7,4.4 .4-6.5z"/>
<path color="#4e0" d="M199.6,134.8l-1,.8-1.1,.8-.3-3.4-5.7,3.5 .3,7 1-2.2 1.1-2.1z"/>
<path color="#fc0" d="M207.4,113.5l-.5-3.9-5.8,4.1 .5,3.8z"/>
<path color="#fe0" d="M207.9,117.5l-.5-4-5.8,4 .5,3.8zM223.6,121.6l-2.2-.5-2.2-.6-2.1-.5-2.2-.9-2.1-4.4-1.2,2.4-5.7,3.5 1.2-2.4 2.1,3.4 2.2,.7 2.2,.2 2.2,1 2.2,.3z"/>
<path color="#ef0" d="M211.6,117.1l-1.1,2.4-2.2,1.9-.4-3.9-5.8,3.8 .5,3.8 2.2-2 1.1-2.5zM228.1,122.7l-2.2-.4-2.3-.7-5.6,2.2 2.2,.6 2.3,.4z"/>
<path color="#e00" d="M95.7,52.1l-.9,.6-6.2-.2 .8-2.1z"/>
<path color="#f00" d="M100.1,79.2l-.4-3.9-.3-.8-.4-.7-.4-.8-.3-.8-.4-.8-.4-3.2-.3-3.2-.4-3.3-.4-3.2-.4-3.2-.3-3.2-6.3-1.7 .4,4.6 .5,4.6 .4,4.6 .4,4.5 .4,4.6 .4,4.6 .3-2.2 .3-2.2 .3-2.2 .3-2.3 .3-2.2 .5,7.6zM108,80.4l-.3-1.6-.3-1.5-.4-1.5-.3-1.5-6.1,2.7 .3-.9 .3-.8 .3-.9 .2-.9zM125.2,79.1l-.4-4-.6-.4-.7-.5-.6-.4-5.9,9.9 .6-2.3 .5-2.3 .6-2.3 .4,5.2zM170.7,87.5l-.3-4.4-.3-4.4-.4-4.5-.3-4.4-.3,4.6-.4,4.6-.3,4.6-.4,4.5-5.9,.6 .3-4.4 .3-4.5 .4-4.5 .3-4.6 .4,5.6 .3,5.5 .3,5.5 .4,5.5zM177.9,88.7l-.3-4.9-.4,1.5-.4,1.5-.4,1.5-.5,1.4-5.9,3.1 .4,.4 .4,.3 .4,.4 .4,.3 .4,2.6zM197,100.3l-.5-.7-5.7-13.8 .5,3.6z"/>
<path color="#f40" d="M100.5,83l-.4-3.8-6.2-4.8 .4,7.6zM110,89.6l-.7-3.1-6.3-10.8 .7,3.8zM129.7,97.2l-.3,1-.3,1-6.5-28.9 .4,3.8 .4,3.8zM190.4,108.1l-.3-7.2-5.8-15.4 .3,11.1zM199.1,104.1l-.5-1.9-.5-.6-5.8-5.2 .5,3.5 .5,3.6z"/>
<path color="#f20" d="M109.3,86.5l-.6-3.1-.3-1.5-.4-1.5-6.3-6.9 .3-.8 .3-.9 .7,3.9zM125.5,83.1l-.3-4-6.1,2.9 .4,5.1zM129.1,99.2l-.3,1-6.5-33.7 .3,3.8zM171.1,91.9l-.4-4.4-5.9,5.3 .3,5.5zM178.3,93.6l-.4-4.9-5.9,8.1 .3,2.6zM198.1,101.6l-.6-.7-.5-.6-5.7-10.9 .5,3.5 .5,3.5z"/>
<path color="#f60" d="M110.6,92.7l-.6-3.1-6.3-10.1 .6,3.9zM130.6,94.1l-.3,1-.3,1-.3,1.1-6.3-19.3 .3,3.8 .4,3.7 .4,3.8zM146.1,104.9l-.3-4.5-6.3-23.7 .4,8.5zM174,92.9l-.5,.6-1.1,1.4-1,1.4-.3-4.4-6,6.4 .4,5.4 1,.7 1,.6 .5-3.1zM199.6,106.1l-.5-2-5.8-.6 .5,3.6z"/>
<path color="#f90" d="M146.5,109.3l-.4-4.4-6.2-19.7 .4,8.4zM200.1,108l-.5-1.9-5.8,1 .5,3.6z"/>
<path color="#fc0" d="M146.8,113.8l-.3-4.5-6.2-15.7 .4,8.3zM201.1,113.7l-.4-3.8-5.9,4.3 .5,3.7z"/>
<path color="#09f" d="M159.8,145l-.3,8.2-5.8,11.2 .3-11.4z"/>
<path color="#2e1" d="M192.8,141.3l-1,2.2-.3-7-5.8,3.6 .2,10.6 1.1-3.5z"/>
<path color="#4e0" d="M193.9,139.2l-1.1,2.1-5.8,5.9 1.1-3.6z"/>
<path color="#6e0" d="M194.3,132.7l-.4,6.5-5.8,4.4 .4-9.4z"/>
<path color="#fa0" d="M200.7,109.9l-.6-1.9-5.8,2.7 .5,3.5z"/>
<path color="#fe0" d="M201.6,117.5l-.5-3.8-5.8,4.2 .5,3.7zM209.2,121.6l-2.1-3.4-1.2,2.4-5.8,3.6 1.1-2.5 2.2,2.5zM213.6,122.5l-2.2-.2-5.8,2.3 2.2,0z"/>
<path color="#ef0" d="M202.1,121.3l-.5-3.8-5.8,4.1 .5,3.6zM211.4,122.3l-2.2-.7-5.8,2.6 2.2,.4zM222.5,124.8l-2.3-.4-2.2-.6-2.2-.3-2.2-1-5.8,2.1 2.2,1.3 2.2,.1 2.3,.6 2.2,.4z"/>
<path color="#df0" d="M204.8,123.1l-2.2,2-.5-3.8-5.8,3.9 .5,3.7 2.2-2.1z"/>
<path fill="none" stroke="#8c8c8c" stroke-width=".4" stroke-opacity=".7" d="M206.4,105.6L194.8,114.2M185.3,116.1L173.7,109.7M165.2,142.1L153.7,164.4M145.8,80.5L133.9,92.5M127.5,103.4L115.4,93.6M109.2,73.1L97.8,104"/>
<path fill="none" stroke="#4a4a3a" stroke-width=".45" stroke-opacity=".8" d="M216.7,127l-2.2-.4-2.3-.6-2.2-.1-2.2-1.3-2.2,0-2.2-.4-2.2-2.5-2.2,5.1-2.2,2.1-2-14.7-2-14.3-2-14.1-2.7,57.8-2.2,7.1-1.6-65.2-2.3,28.3-2.1-6.1-2.3,45.9-1.8-61.5-2.1,17.6-2.1-15.5-2-1.7-2.1,12.5-2-1.3-2.1-33-2,26.9-1.9,27.2-2.1-27.9-2-2.3-1.7,69.8-2.1-34.7-2-14.7-2,2.4-2.1-18.5-1.9,5.9-1.7,21.9-2.4-50-1.7,17.8-1.6,31-2.3-33-1.9-2.5-1.5,32.4-1.9-6.2-2.2-20-1.9-7-2.2-22.7-1.2,41-2.4-30.7-1.7,6.9-1.6,9.9-1.8,5.2-1.4,16.1-2.2-19.8-1.5,16.5-1.1,28-3.1-56.2-2-11.6-1.7,5.2-.5,49.2-2.3-22.2-1.5,7.9-2.9-45.1-1.5,11.1-2.5-27.5-1.6,4.2-.6,37.5-2.3-18.8-2.4-21.9-1.5,6-1.7,.1"/>
<path color="#f00" d="M85.3,76.4l-.4-3.1-.4-3.6-.4-3.7-.4-3.6-.4-3.7-.4-3.6-.4-3.7-.3,1.5-.4,1.5-.4,1.5-.4,1.5-.5,0-.6,0-.6,.1-6.1,5 .6,1.5 .6,1.5 .6,1.6 .4-2.3 .3-2.3 .4-2.3 .3-2.3 .4,2.3 .4,2.4 .3,2.3 .4,2.4 .3,2.3 .4,2.4 .4,3.7zM93.9,74.4l-.5-7.6-.3,2.2-.3,2.3-.3,2.2-.3,2.2-.3,2.2-.4-4.6-.4-4.6-.4-4.5-.4-4.6-.5-4.6-6.2,.5 .3,3.4 .4,3.4 .4,3.4 .4,3.4 .4,3.4 .4,.9 .4,.8 .3,.9 .4,.9 .4,.8 .4,6zM103.7,79.5l-.7-3.8-.7-3.9-.3,1-.4,1.1-.3,1-.3,1.1-6.1,5.6 .3-2.4 .3-2.4 .3-2.5 .2-2.4 .7,2.7 .7,2.8zM117.3,82.6l-.3,1.1-6.3-5.9 .4,4.4zM123.4,77.9l-.4-3.8-.4-3.8-.3-3.8-.2,7-.2,6.9-6.2,2.1 .2-5.5 .2-5.6 .4,6.1 .5,6.1 .4,6.1zM139.9,85.2l-.4-8.5-.3,3.6-.4,3.6-.3,3.5-6.2,.4 .4-3.6 .3-3.6 .4-3.6 .4,9.7zM164.8,92.8l-.4-5.5-.3-5.5-.3-5.5-.4-5.6-.3,4.6-.4,4.5-.3,4.5-.3,4.4-.4,4.5-.3,4.4-6.1-9.4 .3-2.8 .4-2.7 .3-2.8 .3-2.8 .4-2.8 .3-2.8 .4,5.5 .3,5.4 .4,5.4 .3,5.4zM184.6,96.6l-.3-11.1-.4,4.8-.4,4.7-6-.3 .4-1 .3-1.1 .4,7.6zM192.3,96.4l-.5-3.5-.5-3.5-.5-3.6-.5,9.9-6,8.6 .4-9.7 .5,1.6 .5,1.7 .6,1.7z"/>
<path color="#e00" d="M89.8,55l-.4-4.6-.4,1-6.2,2.7 .4-2 .4,3.4z"/>
<path color="#f40" d="M94.3,82l-.4-7.6-6.1,8.4 .5,5.9zM118.4,78l-.3,1.1-.2,1.2-6,10.7 .4,4.4 .3,4.3zM140.3,93.6l-.4-8.4-6.1,1.5 .4,9.7zM165.1,98.3l-.3-5.5-6.1,.4 .4,5.3zM172,97.3l-.4-3.1-6,3.7 .4,3.4zM176.1,102.5l-.3-10.4-6,4.1 .3,8.4zM184.9,107.6l-.3-11-6,3.6 .3,7.6zM193.3,103.5l-.5-3.6-6,1.3 .5,2.9z"/>
<path color="#f20" d="M104.3,83.4l-.6-3.9-6.3-2.1 .6,2.8zM117.9,80.3l-.3,1.1-.3,1.2-6.2-.4 .4,4.4 .4,4.4zM123.7,81.7l-.3-3.8-6,11.8 .4,6.1zM192.8,99.9l-.5-3.5-6,3.2 .5,1.6z"/>
<path color="#f60" d="M104.9,92.9l-.6-9.5-6.3-3.2 .6,9.6zM119.1,82l-.4-5.2-.3,1.2-5.8,21.7 .4,4.4 .3,.1zM124.1,85.4l-.4-3.7-5.9,14.1 .4,6zM194.3,110.7l-.5-3.6-.5-3.6-6,.6 .5,2.8 .6,2.9z"/>
<path color="#f90" d="M124.5,89.2l-.4-3.8-5.9,16.4 .4,6zM140.7,101.9l-.4-8.3-6.1,2.8 .5,9.6zM194.8,114.2l-.5-3.5-5.9-.9 .5,2.8z"/>
<path color="#0ed" d="M154,153l-.3,11.4-6.1-21.8 .3-6.7z"/>
<path color="#4e0" d="M186.7,148.4l-.4,1.1-.4,1.2-5.8-13.1 .4,2.3 .3,2.4zM188.5,134.2l-.4,9.4-5.9,8 .4-9.3z"/>
<path color="#2e1" d="M188.1,143.6l-.4,1.2-.3,1.2-.4,1.2-.3,1.2-5.9-6.1 .4,2.3 .3,2.3 .3,2.4 .4,2.3z"/>
<path color="#fa0" d="M195.3,117.9l-.5-3.7-5.9-1.6 .5,3.6z"/>
<path color="#fc0" d="M195.8,121.6l-.5-3.7-5.9-1.7 .5,3.6z"/>
<path color="#fe0" d="M196.3,125.2l-.5-3.6-5.9-1.8 .5,3.6zM203.4,124.2l-2.2-2.5-1.1,2.5-5.9,.4 1.1,.8 2.2,1.2z"/>
<path color="#ef0" d="M196.8,128.9l-.5-3.7-5.9-1.8 .5,3.6zM216.7,127l-2.2-.4-2.3-.6-2.2-.1-2.2-1.3-2.2,0-2.2-.4-5.9,2.4 2.2,.1 2.2,.5 2.2,.6 2.3,.4 2.2,.6 2.3,.4z"/>
<path color="#f00" d="M79,75.7l-.4-3.7-.4-2.4-.3-2.3-.4-2.4-.3-2.3-.4-2.4-.4-2.3-.3,2.3-.4,2.3-.3,2.3-.4,2.3-.6-1.6-.6-1.5-.6-1.5-6.2,5.1 .6,3.1 .7,3.1 .7,3.1 .3-3.1 .3-3.1 .3-3.2 .4-3.1 .3,1.1 .3,1 .3,1 .3,1.1 .4,1 .3,1.1 .4,4.2zM82.8,54.1l-.4,2-.4,2-.3,2.1-.1,5.7-.2,5.6-.1,5.7-6.2,3.7 .1-5 .1-5 .2-5.1 .3-3 .3-2.9 .4-3zM87,76l-.4-.9-.3-.9-.4-.8-.4-.9-.4-3.4-.4-3.4-.4-3.4-.4-3.4-.3-3.4-6.4,.6 .3,2.2 .4,2.2 .3,2.2 .4,2.2 .4,2.2 .4,4 .5,3.9 .5,4 .5,4zM102.2,91.4l-.3-1.4-6.9-22.3 .4,5.8zM111.1,82.2l-.4-4.4-.2,4.7-6.4-3 .1-7.8 .5,10.1zM116.5,77.5l-.4-6.1-.2,5.6-.2,5.5-6.3,2.2 .3-4.2 .2-4.2 .5,8.5zM128.1,91.8l-.4-7.3-.3,1.5-.3,1.5-.3,1.4-6.3-2.4 .2-3.4 .3-3.4 .3-3.4 .4,9.1zM133.8,86.7l-.4-9.7-.4,3.6-.3,3.6-.4,3.6-6.2,.3 .3-3.6 .3-3.6 .4-3.7 .5,11.1zM158.7,93.2l-.3-5.4-.4-5.4-.3-5.4-.4-5.5-.3,2.8-.4,2.8-.3,2.8-.3,2.8-.4,2.7-.3,2.8-.3,4.4-.3,4.5-6.3-9.9 .3-4.4 .3-4.4 .4-1 .3-1 .3-1 .4-1 .3-1 .4-1 .3,5.3 .4,5.3 .4,5.3 .3,5.2zM178.2,92.6l-.3,1.1-.4,1-.3,1.1-.4,1-.4,1-.3,1.1-.4,1.3-.5,1.3-6.1-10.1 .5-3.9 .4-4 .3,2.7 .4,2.7 .3,2.8 .4,2.7 .3,2.7 .4,2.7z"/>
<path color="#f20" d="M79.4,79.3l-.4-3.6-6.4-.8 .4,4.2zM87.4,76.8l-.4-.8-6.1,7 .4,3.9zM98.6,89.8l-.6-9.6-6.4-3.3 .6,9.7zM102.5,92.9l-.3-1.5-6.8-17.9 .5,5.8zM111.5,86.6l-.4-4.4-6.4-.4 .6,10zM117,83.6l-.5-6.1-6.1,7.3 .5,8.4zM159.1,98.5l-.4-5.3-6.2,.3 .4,5.3zM175.2,101.5l-.4,1.3-.4,1.3-6.1-4.8 .4-4 .4-3.9zM178.6,100.2l-.4-7.6-6.1,7.2 .3,4.1zM187.3,104.1l-.5-2.9-.5-1.6-.6-1.7-.5-1.7-.5-1.6-6.2,8.8 .6-.2 .5-.2 .6-.2 .5-.2 .6,2.1z"/>
<path color="#e00" d="M83.6,55.5l-.4-3.4-.4,2-6.3,2.8 .3-3 .4,2.2z"/>
<path color="#f40" d="M87.8,82.8l-.4-6-6.1,10.1 .5,4.3zM102.9,94.3l-.4-1.4-6.6-13.6 .4,5.7zM128.5,99l-.4-7.2-6.4-6.4 .5,9zM134.2,96.4l-.4-9.7-6.2,1.6 .4,10.9zM166,101.3l-.4-3.4-.3,2.9-6.2,6.9 .3-6 .5,3.6zM178.9,107.8l-.3-7.6-6.2,3.7 .4,4zM187.8,106.9l-.5-2.8-6,.6 .5,2.1z"/>
<path color="#f60" d="M111.9,91l-.4-4.4-6.2,5.2 .5,10zM117.4,89.7l-.4-6.1-6.1,9.6 .4,8.4zM159.4,103.9l-.3-5.4-6.2,.3 .4,5.2zM188.9,112.6l-.5-2.8-.6-2.9-6-.1 .5,2.1 .5,2.1z"/>
<path color="#fa0" d="M134.7,106l-.5-9.6-6.2,2.8 .5,10.9zM189.9,119.8l-.5-3.6-6-1.7 .5,3.5z"/>
<path color="#ef0" d="M135.1,115.5l-.4-9.5-6.2,4.1 .5,10.8zM210.9,129.2l-2.3-.4-2.2-.6-2.3-.4-2.2-.6-2.2-.5-2.2-.1-2.2-1.2-6,3.7 2.2-.2 2.2-.1 2.2,1 2.3,0 2.2,.6 2.2,.6 2.3,.4z"/>
<path color="#2e1" d="M136.2,131.2l-.2,3.2-6.1,7.8 .3-2.8zM182.6,142.3l-.4,9.3-6,8.1 .4-9.2z"/>
<path color="#4e0" d="M136.5,128l-.3,3.2-6,8.2 .3-2.8z"/>
<path color="#6e0" d="M136.8,124.8l-.3,3.2-6,8.6 .3-2.8zM183,132.9l-.4,9.4-6,8.2 .3-9.3z"/>
<path color="#f90" d="M179.2,115.3l-.3-7.5-6.1,.1 .3,4.1zM189.4,116.2l-.5-3.6-6.1-1.6 .6,3.5z"/>
<path color="#be0" d="M183.4,123.4l-.4,9.5-6.1,8.3 .4-9.3z"/>
<path color="#fc0" d="M190.4,123.4l-.5-3.6-6-1.8 .5,3.5z"/>
<path color="#fe0" d="M195.3,125.4l-1.1-.8-1.1-.7-1.1,1.5-1.1,1.6-.5-3.6-6-1.9 .5,3.5 1.1-2 1.2-2 1,4 1.1,4.1z"/>
<path fill="none" stroke="#8c8c8c" stroke-width=".4" stroke-opacity=".7" d="M194.8,114.2L182.8,111M173.7,109.7L161.6,119.5M153.7,164.4L141.3,120M133.9,92.5L121.3,76.3M115.4,93.6L103.5,117.9M97.8,104L86,126.7"/>
<path fill="none" stroke="#4a4a3a" stroke-width=".45" stroke-opacity=".8" d="M204.9,131.4l-2.3-.4-2.2-.6-2.2-.6-2.3,0-2.2-1-2.2,.1-2.2,.2-2.1-8.1-2.3,4-2.1-14-2.1-8.4-2.2,.8-2.3,56.3-2-35.7-2.1-24.2-2.1-16.3-2.2,19.7-2.1,34.4-2.1-37.2-2,19.1-2.2-17.8-1.9,35.5-2,5.4-2.2-38.6-2.2-31.6-2.1,6-1.8,26-2.1-4.4-1.9,8.8-1.9,11.2-2-.7-1.8,12.1-2.2-18.5-1.9,.5-1.8,11.9-1.7,16.9-2.8-65-1.7,18.1-1.4,34.7-2.7-53.7-1.6,20.4-1.3,34.8-1.7,7.3-1.8,3.2-2.1-15.5-2.9-50.2-1.3,25.1-1.2,29.9-3.2-59.6-.7,46.2-1.8,2.2-2.1-10.4-1.9-7.5-2.7-34.5 0,66.7-3.4-57.5-1.9-4.9-1.2,19.2-.9,29.3-1.6,6.2-2.1-14.2-2.6-25.6-2.3-19.8-2.2-13.2-1.3,11.9-.8,29.9-2.5-25-1.9-6.3-1.3,12.5-2-9.3"/>
<path color="#f00" d="M68.3,73.8l-.7-3.1-.6-3.1-6.1,12.5 .7,1.2 .6,1.3zM73,79.1l-.4-4.2-.4-4.2-.7-2.1-.6-2.1-.6-2.1-.4,3.1-.3,3.2-.3,3.1-6.2,7.3 .3-2.7 .3-2.7 .4-2.7 .5-.6 .5-.6 .6-.7 .5,5 .4,5zM79.9,75l-.5-3.9-.4-4-.6-3.3-.5-3.3-.6-3.3-.5-3.3-.2,2-.3,2-.2,2-.2,2-.2,1.9-.2,2-5.6,26.2 .1-4.3 .1-4.3 .2-4.3 .1-4.3 .1-4.4 .2-4.3 .5,3.1 .6,3.2 .5,3.2 .6,3.2 .4,2.2 .4,2.2zM91,75.2l-.4-.8-.3-.8-.3-.8-.3-.8-.3,3.8-.2,3.9-6.3,5.9 .3-2.7 .3-2.8 .3,2.2 .4,2.1 .3,2.2 .4,2.2zM95.9,79.3l-.5-5.8-.4-5.8 0,11.3-6.4,4.8 .1-7.4 .5,5.7 .5,5.7zM104.7,81.8l-.5-10.1-.1,7.8-6.3,6.7 .1-8.1 .5,5.8zM121.7,85.4l-.4-9.1-.3,3.4-.3,3.4-6.1,16.3 .2-7.8 .2-7.8 .4,7.6zM127.6,88.3l-.5-11.1-.3,3.1-.3,3-.3,3-.2,3-.3,3-6.5-4.2 .4,.6 .3,.6 .3,.6 .4,.6 .3,.6 .5,9.3zM152.5,93.5l-.3-5.2-.4-5.3-.4-5.3-.3-5.3-.4,1.2-.5,1.2-.4,1.2-.4,1.2-.4,1.2-.3,4.4-.3,4.4-6.2,11.1 .3-3.3 .3-3.3 .4-2.3 .4-2.4 .4-2.4 .4-2.4 .4-2.3 .3,3.8 .4,3.8 .4,3.9 .3,3.8zM171.7,97.1l-.3-2.7-.4-2.7-.3-2.8-.4-2.7-.3-2.7-.4,3.3-.3,3.3-.4,3.3-.4,3.3-6.2,5.7 .3-5.8 .4-5.8 .3-5.8 .4-5.9 .4,4 .3,4.1 .4,4 .3,4 .4,4z"/>
<path color="#f20" d="M69.3,73.8l-.3,3.1-.7-3.1-6.1,8.8 .6,1.2 .3-2.7zM80.4,79l-.5-4-6.2,8.2 .4,2.2zM91.6,76.9l-.3-.8-.3-.9-6.1,13.6 .4,2.1 .3,2.2zM96.3,85l-.4-5.7-6.2,8.5 .4,5.7zM105.3,91.8l-.6-10-6.3,2.1 .4,5.9zM125.7,92.3l-.3,3-6.5-7.8 .3,.6zM152.9,98.8l-.4-5.3-6.3,1.7 .4,3.8zM172.1,99.8l-.4-2.7-6.2,2.1 .4,4z"/>
<path color="#f40" d="M73.5,83.2l-.5-4.1-6.4,2 .5,4.9zM80.9,83l-.5-4-6.3,6.4 .5,2.2zM92.2,86.6l-.6-9.7-6,16.2 .5,4.6zM122.2,94.4l-.5-9-6.3,6 .5,7.4zM153.3,104l-.4-5.2-6.3,.2 .4,3.8zM172.4,103.9l-.3-4.1-6.2,3.4 .3,5.2zM181.8,106.8l-1.1-4.2-.4,.2-6.3,11.1 .5-2 1.1,.4z"/>
<path color="#f60" d="M81.3,86.9l-.4-3.9-6.3,4.6 .4,2.2zM105.8,101.8l-.5-10-6.5-2 .5,5.8zM110.4,84.8l-.5-8.5-5.8,27.9 .4,2.7zM128,99.2l-.4-10.9-6.2,12.1 .5,9.3zM172.8,107.9l-.4-4-6.2,4.5 .4,5.2zM180.3,102.8l-.5,.1-.4,.2-.4,.1-6.3,16.7 .5-2 .4-2 .4-2zM182.8,111l-1-4.2-6.2,5.5 1.1,.4z"/>
<path color="#f90" d="M81.8,91.2l-.5-4.3-6.3,2.9 .5,6.8zM110.9,93.2l-.5-8.4-5.9,22.1 .3,2.7zM153.6,110.5l-.3-6.5-6.3-1.2 .4,7.2zM173.1,112l-.3-4.1-6.2,5.7 .3,5.2zM179,103.2l-.5,.2-6.2,18.5 .4-2zM183.9,118l-.5-3.5-.6-3.5-6.1,1.7 .5,2 .5,2.1zM187.5,122.3l-.3-1.3-.6,1-6.1-8.2 .6-2.4 .3,2.8z"/>
<path color="#0e2" d="M87.2,122l-.4,1.6-.4,1.6-5.8,16.1 .3-2.6 .4-2.6zM130.2,138.9l-.3,3.3-6.2,4 .4-2.2zM176.6,150.5l-.4,9.2-.4-5.9-6.1,1.1 .4,4.1 .3-6.1z"/>
<path color="#fc0" d="M106.3,111.7l-.5-9.9-6.5-6.2 .4,5.8zM128.5,110.1l-.5-10.9-6.1,10.5 .4,9.2zM188.6,126.4l-.4-1.4-.3-1.3-6.1-6.7 .3,2.8 .4,2.8z"/>
<path color="#0e7" d="M117.3,136.4l-.3,1.2-.3,1.2-6,10.9 .2-2.7 .3-2.6z"/>
<path color="#df0" d="M129,120.9l-.5-10.8-6.2,8.8 .5,9.2z"/>
<path color="#2e1" d="M130.6,135.5l-.4,3.4-6.1,5.1 .3-2.3z"/>
<path color="#fa0" d="M173.5,116l-.4-4-6.2,6.8 .4,5.1zM187.9,123.7l-.4-1.4-6.1-8.1 .4,2.8z"/>
<path color="#4e0" d="M176.9,141.2l-.3,9.3-6.2,2.4 .4-6.1z"/>
<path color="#fe0" d="M189.3,129.1l-.4-1.3-.3-1.4-6.1-3.8 .3,2.8 .4,2.8z"/>
<path color="#ef0" d="M204.9,131.4l-2.3-.4-2.2-.6-2.2-.6-2.3,0-2.2-1-2.2,.1-1.1,.1-1.1,.1-6.1-.9 1.1,1.4 1.1,1.3 2.2-.3 2.2,1.5 2.3-.2 2.2,.9 2.3,.4 2.2,.5z"/>
<path color="#f00" d="M66.6,81.1l-.4-5-.5-5-.6,.7-.5,.6-.5,.6-.4,2.7-6.2,8.3 .3-2.3 .4-3.3 .5-3.4 .4-3.4 .5,5.8 .5,5.7zM72.3,75.6l-.5-3.2-.6-3.2-.5-3.1-.2,4.3-.1,4.4-6,16.9 .1-6.6 0-6.7 .6,3 .5,3.1 .6,3zM89.2,82.1l-.5-5.7-.1,7.4-6.4,4.9 .2-3.4 .5,5.6zM98.4,83.9l-.5-5.8-.1,8.1-6.4,6.8 .1-8.5 .4,1.6zM119.9,89.3l-.3-.6-.4-.6-.3-.6-.2,6.9-6.6-6.9 .1-8 .4,4.3 .4,4.3 .5,4.3zM146.2,95.2l-.3-3.8-.4-3.9-.4-3.8-.3-3.8-.4,2.3-.4,2.4-.4,2.4-.4,2.4-6.3,12.3 .3-3.6 .4-3.5 .4-3.6 .4-3.6 .3,2.4 .4,2.4 .4,2.4 .3,2.3zM165.5,99.2l-.4-4-.3-4-.4-4-.3-4.1-.4-4-.4,5.9-.3,5.8-.4,5.8-6.3,3.4 .3-8.4 .3-8.5 .4-8.5 .3,5.3 .4,5.4 .4,5.4 .4,5.3 .3,5.3z"/>
<path color="#f40" d="M67.1,86l-.5-4.9-6.5,2 .5,5.8zM73.7,83.2l-.4-2.2-.4-2.2-6.2,11.8 .4,.4 .3,.4zM84.2,84.4l-.4-2.1-6.2,9.5 .4,3.6zM89.7,87.8l-.5-5.7-6.3,8.8 .5,5.6zM99.3,95.6l-.5-5.8-6.6-2.1 .4,1.6zM120.9,91.1l-.3-.6-6.3,10.4 .4,4.2zM166.2,108.4l-.3-5.2-6.4,3.5 .4,6.3zM181.8,117l-.4-2.8-6.2-8.3 .3,4.3z"/>
<path color="#f90" d="M67.6,91l-.5-5-6.5,2.9 .5,5.7zM85.3,90.9l-.4-2.1-.4-2.2-6.1,12.3 .4,3.5 .4,3.5zM90.1,93.5l-.4-5.7-6.3,8.7 .4,5.6zM100.2,107.2l-.5-5.8-6.8-10.6 .4,1.6zM121.4,100.4l-.5-9.3-6.2,14 .4,7.7zM154.9,114.8l-.4-2.5-.4-2.5-6.4,1.1 .4,1.4 .4,1.4zM166.6,113.6l-.4-5.2-6.3,4.6 .4,6.4zM179.4,118.5l-.6,2.4-.5-2.1-.6-2-.5-2.1-6.3,.3 .6,.5 .5,.6 .6,.6 .5-3.8zM182.5,122.6l-.4-2.8-6.2-5.3 .3,4.3z"/>
<path color="#f20" d="M72.9,78.8l-.6-3.2-6.1,11.9 .5,3.1zM83.8,82.3l-.3-2.2-.3,2.8-6.4,7.1 .3-1.7 .5,3.5zM98.8,89.8l-.4-5.9-6.5,2.2 .3,1.6zM115.4,91.4l-.4-7.6-.2,7.8-6.2,12.1 0-12.2 .5,5.9zM120.6,90.5l-.4-.6-.3-.6-6.4,3.1 .4,4.2 .4,4.3zM147,102.8l-.4-3.8-.4-3.8-6.4,1.7 .4,2.4 .4,2.3zM165.9,103.2l-.4-4-6.4,2.1 .4,5.4zM181.4,114.2l-.3-2.8-.6,2.4-6.3-8.4 .6-3.8 .4,4.3z"/>
<path color="#f60" d="M75,89.8l-.4-2.2-.5-2.2-.4-2.2-6.3,8.2 .4,.5 .4,.4 .3,.4zM84.5,86.6l-.3-2.2-6.2,11 .4,3.5zM99.7,101.4l-.4-5.8-6.7-6.3 .3,1.5zM147.4,110l-.4-7.2-6.4-1.2 .4,7.8zM154.1,109.8l-.5-2.5-.4-2.5-6.4,3.2 .5,1.4 .4,1.5zM182.1,119.8l-.3-2.8-6.3-6.8 .4,4.3z"/>
<path color="#fa0" d="M75.5,96.6l-.5-6.8-6.5,2.9 .6,9.4zM90.6,99.2l-.5-5.7-6.3,8.6 .5,5.6zM100.6,112.9l-.4-5.7-6.9-14.8 .3,1.6zM147.8,117l-.4-7-6.4-.6 .4,7.7zM166.9,118.8l-.3-5.2-6.3,5.8 .3,6.3zM182.8,125.4l-.3-2.8-6.3-3.8 .4,4.2z"/>
<path color="#fe0" d="M76,103.4l-.5-6.8-6.4,5.5 .7,9.2zM101.3,115.6l-.3-1.3-6.9-12.5 .6,7.7zM148.2,124.1l-.4-7.1-6.4,.1 .4,7.7zM167.3,123.9l-.4-5.1-6.3,6.9 .4,6.3zM187.6,130.6l-2.2,.3-1.1-1.3-1.1-1.4-6.3-.9 1.1,2.8 1.1,2.9 2.3-.6z"/>
<path color="#05f" d="M80.6,141.3l-.4,2.6-.5-3.4-5.8,17.4 .5,3.3 .3-3.6z"/>
<path color="#07f" d="M80.9,138.7l-.3,2.6-5.9,16.3 .3-3.6z"/>
<path color="#09f" d="M81.3,136.1l-.4,2.6-5.9,15.3 .3-3.7zM110.9,147l-.2,2.7-.4-1.4-6.2,9 .4,3.3 .2-4z"/>
<path color="#0cf" d="M81.6,133.5l-.3,2.6-6,14.2 .3-3.7zM111.2,144.4l-.3,2.6-6.2,9.6 .3-4.1z"/>
<path color="#0e7" d="M81.7,127l-.1,6.5-6,13.1 0-8.2zM151.7,145.7l-.3,8-6.2,16.6 .3-10.2z"/>
<path color="#2e1" d="M81.8,120.5l-.1,6.5-6.1,11.4 0-8.2zM128.5,130.9l-.4,2-.3,1.9-6,21.6 .3-3.8 .3-3.9z"/>
<path color="#fc0" d="M101,114.3l-.4-1.4-7-18.9 .5,7.8zM121.9,109.7l-.5-9.3-6.3,12.4 .5,7.5zM183.2,128.2l-.4-2.8-6.2-2.4 .3,4.3z"/>
<path color="#df0" d="M101.6,116.9l-.3-1.3-6.6-6.1 .5,7.8z"/>
<path color="#0e2" d="M114.1,122.2l-.1,7.6-5.7,32.9 0-11.6zM170.4,152.9l-.3,6.1-.4-4.1-6.2,1.1 .4,2.3 .3-2.9z"/>
<path color="#6e0" d="M114.3,114.7l-.2,7.5-5.8,28.9 .1-11.7zM123.3,137.2l-.5-9.1-6.3,7.3 .5,7.4zM171.2,140.6l-.4,6.2-6.2,5.7 .3-3z"/>
<path color="#ef0" d="M122.3,118.9l-.4-9.2-6.3,10.6 .5,7.6zM198.8,133.7l-2.2-.5-2.3-.4-2.2-.9-2.3,.2-2.2-1.5-6.2,1.8 2.2,2.1 2.2-.4 2.3,1.1 2.3,.3 2.2,.5z"/>
<path color="#9e0" d="M122.8,128.1l-.5-9.2-6.2,9 .4,7.5zM135.9,125.1l-.4,2.8-6.2,10.2 .3-3.3z"/>
<path color="#be0" d="M136.3,122.4l-.4,2.7-6.3,9.7 .4-3.3z"/>
<path color="#4e0" d="M170.8,146.8l-.4,6.1-6.2,2.5 .4-2.9z"/>
<path color="#8e0" d="M171.5,134.4l-.3,6.2-6.3,8.9 .4-3z"/>
<path fill="none" stroke="#8c8c8c" stroke-width=".4" stroke-opacity=".7" d="M182.8,111L170.4,114.4M161.6,119.5L149,115.2M141.3,120L128.9,141.4M121.3,76.3L108.6,91.5M103.5,117.9L91.1,134.6M86,126.7L74.4,161.2"/>
<path fill="none" stroke="#4a4a3a" stroke-width=".45" stroke-opacity=".8" d="M192.6,136l-2.2-.5-2.3-.3-2.3-1.1-2.2,.4-2.2-2.1-2.3,.6-2.2-5.7-2.1-25.7-2.2,15.1-2.2-2.3-2.2,6.9-2.2,19.3-2.1,17.7-2.2-13.8-2.2-37.8-2.2-32.1-2,50.2-2,21.5-2.2-20.9-2.1-10.2-2.2-7.2-1.6,62.3-2.2-22.7-2.4-46-2.2-14.2-1.9,17.8-1.9,12.8-1.8,12.4-2.1-5.5-1.8,16.5-1.9,0-2-4-1.9,3.6-1.6,19.2-2.2-15.5-1.9,5.6-2.7-45.2-2.5-25.6-.9,47.2-2.7-35.2-.3,71.2-2.5-26.7-1.3,24.6-2.2-16.6-2.6-30.2-1.4,18.3-1.6,8.1-3.1-46.2-2.1-9.5-.4,50.1-2.1-11.2-1.5,11.9-2.2-16.5-2.9-33.5-1.1,20.4-1.7,3.7-2.5-21.1-1.4,8.4-.1,49.9-1.2,14.6-2.2-13.4-3.7-55.1-1.8-2.1-2.2-12.2-.2,39.6-2.1-12-3.1-34.4-1.3,10.1-1.3,9.2-1.6,1.8"/>
<path color="#f00" d="M59,72.4l-.1,.9-.1,.8-.1,.9-.2,.8-.1,.9-.1,1.2-4.2,6.4 .1-1.8 .2,1.4 .2,1.4 .2,1.4 .2,1.4 .2,1.3zM113,88.1l-.2-2.1-.2-2.2-.2-2.1-.2-2.2-.1,4 0,4-4.2,9.7 0-5.1 .1-5.2 .2,2.9 .2,3 .2,2.9 .3,2.9zM138.9,91l-.5-3.6-.2,1.8-.2,1.8-.2,1.8-4.2,11.9 .2,.2 .2,.1 .2,.2 .5,2zM158.4,90.7l-.2-2.7-.2-2.7-.2-2.7-.2-2.7-.1-2.6-.2-2.7-.2,4.2-.2,4.3-.1,4.2-.2,4.3-.2,4.2-4.2,10.9 .1-2.7 .2-2.7 .2-2.7 .1-2.7 .2-2.8 .2,3.8 .2,3.7 .2,3.7 .2,3.7 .2,3.7 .2,3.7z"/>
<path color="#f20" d="M59.6,77.4l-.3-2.9-.2-2.9-.1,.8-3.8,17 .2,1.4 .2,.8 .2,.7zM108.8,94.5l-.2-3-4.3,2.8 .2,3.4zM113.2,90.3l-.2-2.2-4.1,10.5 .2,3zM139.5,94.6l-.6-3.6-4.2,16.2 .6,2zM158.7,94.7l-.3-4-4.2,24.7 .3,2.7z"/>
<path color="#f40" d="M60.1,83.1l-.2-2.9-.3-2.8-3.8,14.9 .1,.7 .2,.8zM65.1,81.4l-.3-1.5-.3-1.5-3.7,18.6 .2-.2 .2-.2zM93,91.2l-.2-1-.2-.9-.2-.8-.2-.8-.2-.8-.1-.8-.2-.8-.2-.8-3.8,20.1 .1-1.4 .1-1.5 .1-1.4 .1-1.4 .1-1.5 .1-1.4 .3,1.9 .2,2zM109.1,97.4l-.3-2.9-4.3,3.2 .2,3.4zM113.7,94.5l-.2-2.1-.3-2.1-4.1,11.3 .2,2.9 .2,0zM140.6,101.6l-.6-3.5-.5-3.5-4.2,14.6 .5,2.1 .5,2zM159,98.7l-.3-4-4.2,23.4 .2,2.7zM175.2,105.9l-.4-4.3-.6,3.8-.5,3.8-4.3,11.2 .6-2.1 .5-2.1 .4,2.9z"/>
<path color="#f60" d="M60.4,86l-.3-2.9-4,10.7 .2,.7zM66.2,87.5l-.6-3-.3-1.6-.2-1.5-3.9,15.2 .2-.1 .2-.2 .5,1.8zM77.4,90.4l-.3-2.1-.1,.8-.2,.9-4.1,9.4 .1-1.8 .2-1.9 .2,2.8zM82.9,90.9l-.2-2.8-.3-2.8-.2,3.4-3.9,16.1 .2-2.7 .2,.1 .1,.1zM93.4,93l-.2-.9-.2-.9-4.2,8.7 .3,1.9 .2,1.9zM114.5,103l-.2-2.1-.2-2.1-.2-2.2-.2-2.1-4.2,10 .1,0 .2,0 .2,0 .1,0zM140.8,105.5l-.2-3.9-4.3,11.7 .2,2.1zM159.2,102.7l-.2-4-4.3,22.1 .3,2.6zM175.9,114.5l-.4-4.3-.3-4.3-4.3,13.2 .3,2.9 .4,2.9z"/>
<path color="#f90" d="M60.9,92.3l-.3-3.4-.2-2.9-4.1,8.5 .1,.7 .3,3.2zM66.7,90.6l-.5-3.1-4.1,10.6 .5,1.7zM68.5,92.7l-.1-.2-.2-.1-4.1,8.2 0-2.5 .1-2.4zM76,94.6l-.1,.7-.1,.7-.1,.7-4.4,.9 .1,1.2 .2,1.3 .2,1.2zM77.9,94.7l-.3-2.2-.2-2.1-4.2,8.1 .3,2.7 .3,2.7zM83.4,96.5l-.3-2.8-.2-2.8-4.1,11.4 .2,.1 .1,.1zM93.9,97.9l-.3-3.9-.2-1-4.1,10.7 .2,1.9 .3,3.4zM114.9,109l-.2-3.9-.2-2.1-4.4,1.5 .2,0 .2,3.3zM141,109.4l-.2-3.9-4.3,9.9 .2,2.2zM148.4,113.4l-.5-1.8-.2-.6-.2-.6-.1-.6-.2-.6-.2-.6-.2-.6-4.2,13.6 .2-1.2 .1-1.1 .2-1.2 .2-1.1 .1-1.2 .2-1.2 .5,2.1zM159.5,106.7l-.3-4-4.2,20.7 .3,2.7zM172,116.1l-.5-.6-1.1-1.1-4.3,9.6 1.1,.7 .5,1.2zM176.2,118.8l-.3-4.3-4.3,10.4 .4,2.9z"/>
<path color="#fa0" d="M61.2,95.7l-.3-3.4-4.2,6.1 .3,3.1zM67.3,91.3l-.1-.2-.2-.2-.1-.2-.2-.1-4.1,9.2 .2,1.8 .2,1.7 .3,1.8 .2,1.7zM68.2,92.4l-.1-.2-.2-.2-3.9,13.5 0-2.5 .1-2.4zM68.8,97.4l-.3-4.7-4.3,3 .3,3.7zM78.1,96.8l-.2-2.1-4.1,9.2 .2,2.8zM83.8,102.1l-.2-2.8-.2-2.8-4.3,6 .2,.1 .1,.1zM94.1,101.8l-.2-3.9-4.1,11.1 .2,3.3zM115.1,112.8l-.2-3.8-4.4-1.2 .2,3.2zM141.2,113.3l-.2-3.9-4.3,8.2 .2,2.2zM149.5,117.7l-.5-2.5-.6-1.8-4.3,3.3 .6,2.1 .5,2.1zM160,114.3l-.3-3.8-.2-3.8-4.2,19.4 .2,2.1 .2,2.2zM170.4,114.4l-1.1,3.5-.6,1.7-.5,1.7-4.3,4.4 .6-.4 .5-.4 1.1-.9zM176.6,123l-.4-4.2-4.2,9 .3,2.9z"/>
<path color="#fc0" d="M61.5,99.2l-.3-3.5-4.2,5.8 .3,3.2zM67.9,92l-.1-.2-.2-.2-.1-.1-.2-.2-3.8,15.5 .2,1.8 .2,1.7 0-2.4 .1-2.4zM69.1,102.1l-.3-4.7-4.3,2 .3,3.8zM78.4,98.9l-.3-2.1-4.1,9.9 .3,2.7zM84.1,105.5l-.3-3.4-4.4,.6 .3,2.8zM94.4,105.7l-.3-3.9-4.1,10.5 .3,3.3zM115.4,116.5l-.3-3.7-4.4-1.8 .3,3.3zM141.4,117.1l-.2-3.8-4.3,6.5 .2,2.1zM150.2,121.1l-.2-.8-.5-2.6-4.3,3.2 .6,2.1 .1,2zM160.2,118.1l-.2-3.8-4.3,16.1 .3,2.1zM176.9,127.3l-.3-4.3-4.3,7.7 .4,2.9z"/>
<path color="#fe0" d="M69.5,106.7l-.4-4.6-4.3,1.1 .3,3.8zM78.9,103.1l-.3-2.1-.2-2.1-4.1,10.5 .3,2.7 .3,2.8zM115.6,120.3l-.2-3.8-4.4-2.2 .2,3.3zM141.8,124.8l-.2-3.8-.2-3.9-4.3,4.8 .2,2.2 .2,2.2zM160.4,121.9l-.2-3.8-4.2,14.4 .2,2.1zM178,130.1l-1.1-2.8-4.2,6.3 1.1,2z"/>
<path color="#02f" d="M74.6,159.4l-.2,1.8-.4-2.2-4.6-9.8 .3,2.7 .3-.1z"/>
<path color="#05f" d="M75,154l-.1,1.8-.2,1.8-.1,1.8-4.6-7.6 .2-.2 .2-.2 .2-.2z"/>
<path color="#07f" d="M75.2,151.5l-.1,1.2-.1,1.3-4.4-2.8 0-2.1 .1-2.1z"/>
<path color="#09f" d="M75.4,149.1l-.1,1.2-.1,1.2-4.5-4.5 .1-2.1 0-2.1zM104.7,157.6l-.2,3-.2-1.3-4.5-9 .2,2.6 .2-3.3zM108.3,156.9l0,5.8-.2-2.2-4.5-9.1 .2,3.4 0-4.6z"/>
<path color="#0cf" d="M75.6,146.6l-.1,1.3-.1,1.2-4.6-6.3 .1-2.1 .1-2.1zM104.9,154.5l-.2,3.1-4.5-8 .1-3.3zM145.4,165.2l-.2,5.1-4.2-4.7 .1-4.1z"/>
<path color="#0ed" d="M75.6,142.5l0,4.1-4.6-8 0-2.5zM105,151.5l-.1,3-4.6-8.2 .2-3.3zM108.3,151.1l0,5.8-4.5-6.7 .1-4.6zM121.7,157l-.2,3.2-.4-2.6-4.5-9.8 .4,.6 .3-.9zM145.5,160.1l-.1,5.1-4.3-3.7 .1-4.1z"/>
<path color="#0e7" d="M75.6,138.4l0,4.1-4.6-6.4 .1-2.5zM122,153.8l-.3,3.2-4.4-9.5 .3-.8zM145.6,155l-.1,5.1-4.3-2.7 .2-4.1z"/>
<path color="#0e2" d="M75.6,134.3l0,4.1-4.5-4.8 0-2.6zM108.4,145.3l-.1,5.8-4.4-5.5 0-4.6zM122.4,149l-.1,1.6-.3,3.2-4.4-7.1 .3-.8 .1-2.6z"/>
<path color="#2e1" d="M75.6,130.2l0,4.1-4.5-3.3 .1-2.5zM108.4,139.4l0,5.9-4.5-4.3 .1-4.6zM145.8,149.9l-.2,5.1-4.2-1.7 .1-4.2zM164.3,154.8l-.2,1.8-.2,1.7-.3-1.7-.3-1.7-4.2-1.8 .3,2.4 .3,2.4 .2-2.6 .2-2.6z"/>
<path color="#4e0" d="M75.6,126.1l0,4.1-4.4-1.7 0-2.5zM145.9,144.7l-.1,5.2-4.3-.8 .1-4.1zM164.5,153l-.2,1.8-4.2-2.1 .2-2.5z"/>
<path color="#ef0" d="M94.7,109.5l-.3-3.8-4.1,9.9 .2,3.3zM115.8,124.1l-.2-3.8-4.4-2.7 .2,3.2zM160.6,125.7l-.2-3.8-4.2,12.7 .2,2.1zM192.6,136l-1.1-.3-1.1-.2-1.2-.2-1.1-.1-1.1-.6-1.2-.5-1.1,.2-1.1,.2-1.1-1.1-1.1-1-1.2,.3-1.1,.3-1.1-2.9-4.2,5.5 1.1,2 1.1-.1 1.1-.1 1.1,.8 1.2,.8 1.1,0 1.1,0 1.1,.5 1.2,.4 1.1,.2 1.1,.2 1.2,.3 1.1,.3z"/>
<path color="#df0" d="M94.9,113.4l-.2-3.9-4.2,9.4 .3,3.4zM134.1,121.7l-.2,1.3-.2,1.2-4.2,8.5 .2-2.1 .1-2.1zM161.1,133.2l-.3-3.7-.2-3.8-4.2,11 .2,2.2 .2,2.3z"/>
<path color="#be0" d="M95.2,117.3l-.3-3.9-4.1,8.9 .2,3.2zM133.7,124.2l-.5,3.1-4.2,8.5 .5-3.1z"/>
<path color="#6e0" d="M127.6,141.4l-.3,0-.3,0-.2-.3-.2-.3-.1-.4-4.3,.5 .1-1.6 .1-1.6 .2-1.6 .3-1 .3-1.1zM129.1,140.1l-.2,1.3-.4,0-4.5-7 .6,1.4 .1,.6zM164.9,149.5l-.2,1.8-.2,1.7-4.2-2.8 .2-2.6 .2-2.6z"/>
<path color="#8e0" d="M128.5,141.4l-.5,0-.4,0-4.4-7.4 .3-1 .5,1.4zM130,131.1l-.2,2.1-.1,1.4-.2,1.3-.1,1.4-.2,1.4-.1,1.4-4.4-3.7 .2,.6 .2,.6 .2,.6 .1,.6 .2,.6 .2-2.7zM146,139.5l-.1,5.2-4.3,.3 .2-4.2zM165.3,146.5l-.4,3-4.2-4.5 .4-1z"/>
<path color="#f40" d="M53,87l-.2-.6-.2-.7 0,2.2-4.5,.9 0-3.8 .2,2.2 .3,2.1zM54.4,83.9l-.2-1.4-.1,1.8-4.3,6.4 .1-2.4 .3,3.7zM104.5,97.7l-.2-3.4-.1,5.5-4.4,2.2 .1-5 .2,3.9zM108.6,95.7l-.2-2.9-4.2,8.9 .2,3.8zM153.4,100.6l-.2-3.7-4.3,19.6 .2,4.7z"/>
<path color="#f60" d="M53.3,88.4l-.1-.7-.2-.7-4.4,2.3 .2,2.2 .2,2.1zM54.8,86.7l-.2-1.4-.2-1.4-4.2,8.1 .3,3.6 .3,3.6zM104.7,101.1l-.2-3.4-4.4,3.2 .3,3.9zM108.9,98.6l-.3-2.9-4.2,9.8 .3,3.7zM133.6,104.7l-.2-.1-.2-.2-.2,2.3-4.3,8.9 .2-3 .2,2.1 .2,2zM153.6,104.3l-.2-3.7-4.3,20.6 .3,4.7z"/>
<path color="#f90" d="M55,88.1l-.2-1.4-4,12.5 .3,3.6zM88.8,99.9l-.2-2-.3-1.9-.1,1.4-4.2,9 .1-3.7 .2,3 .3,2.9zM109.1,101.6l-.2-3-4.2,10.6 .2,3.7zM110.5,107.8l-.2-3.3-4.5-.7 .2,2.8zM134.2,105.2l-.2-.2-.2-.1-.2-.2-4.3,12 .3,2.1 .2,2.1 .2,2zM153.8,108l-.2-3.7-4.2,21.6 .2,4.7z"/>
<path color="#fa0" d="M55.2,89.4l-.2-1.3-3.9,14.7 .3,3.7zM64.5,99.4l-.3-3.7-.1,2.4-4.2,5.6-.1-5.1 .3,2.9zM71.6,100.1l-.2-1.3-.1-1.2 0,4.3-4.5,1.1 0-4.5 .3,3.2 .2,3.2zM73.2,98.5l-.2-2.8-.2,1.9-4.1,8.4 0-2.8 .3,3.3zM87.1,104.7l-.2,0-.1,0-.1,4.5-4.6-4.8 0-4.9 .3,4.2 .3,4.2zM89.1,101.8l-.3-1.9-4.2,8.7 .3,2.9zM109.6,104.5l-.1,0-.2,0-.2-2.9-4.2,11.3 .2,3.7 .2-2.1 .1-2.1zM111,114.3l-.3-3.3-.2-3.2-4.5-1.2 .3,2.7 .2,2.8zM135.8,111.3l-.5-2.1-.6-2-.5-2-4.2,17.7 .6,.6 .5,.5 .5,.5zM144.7,118.8l-.6-2.1-.5-2.1-.2,1.2-.1,1.2-4.3,6.6 .1-2.9 .2-3 .5,2.4 .6,2.4zM154,111.7l-.2-3.7-4.2,22.6 .2,4.7zM170.9,119.1l-.4-2.9-.5,2.1-.6,2.1-4.3,11.2 .5-.4 .6-.4 .4,1.6z"/>
<path color="#fc0" d="M56.7,98.4l-.3-3.2-.1-.7-.2-.7-.2-.8-.1-.7-.2-.7-.2-.8-.2-1.4-3.8,17.1 .3,3.6 .1-1.4 .1-1.4 .1-1.4 .1-1.4 0-1.4 .1-1.4 .3,2.8zM62.1,98.1l-.5-1.8-.2,.2-3.9,13.6 .1-1.9 .5,.5zM64.8,103.2l-.3-3.8-4.4,2.1 .2,2.9zM71.8,101.3l-.2-1.2-4.3,4.8 .3,3.1zM73.5,101.2l-.3-2.7-4.2,8 .3,3.4zM80,108.4l-.3-2.9-.3-2.8-4.4,.5 .3,2.4 .2,2.4zM89.3,103.7l-.2-1.9-4.2,9.7 .3,2.9zM111.2,117.6l-.2-3.3-4.5-2.2 .2,2.7zM136.7,117.6l-.2-2.2-.2-2.1-.5-2-4.2,13.2 .5,.4 .2,.5 .2,.5zM145.8,123l-.6-2.1-.5-2.1-4.3,3.7 .5,1.7 .5,1.6zM154.2,115.4l-.2-3.7-4.2,23.6 .2,4.7zM167.2,124.7l-1.1-.7-1.1,.9-.5,.4-.6,.4-4.3,4.4 .6,1 .5,1 1.1,1.6 1.1,.2zM171.6,124.9l-.4-2.9-.3-2.9-4.3,13.3 .3,1.5 .4,1.5z"/>
<path color="#fe0" d="M57,101.5l-.3-3.1-4.2,6.1 .3,2.9zM61.4,96.5l-.2,.1-.2,.2-.2,.2-3.7,18.5 .1-1.8 .1-1.8 .2-1.8zM62.8,101.6l-.2-1.8-.5-1.7-4,10.6 .4,.4 .3,3.4zM65.1,107l-.3-3.8-4.5,1.2 .3,2.9zM72.2,103.7l-.2-1.2-.2-1.2-4.2,6.7 .3,3.2 .2,3.1zM73.8,103.9l-.3-2.7-4.2,8.7 .3,3.4zM80.3,111.3l-.3-2.9-4.5-.4 .3,2.3zM89.8,109l-.3-3.4-.2-1.9-4.1,10.7 .2,3 .3,2.7zM111.4,120.8l-.2-3.2-4.5-2.8 .2,2.7zM137.3,124.1l-.2-2.2-.2-2.1-.2-2.2-4.2,8.3 .1,.4 .2,.5 .2,.5zM145.9,125l-.1-2-4.4,2.8 .2,3.2zM154.5,118.1l-.3-2.7-4.2,24.6 .2,1.4zM168.8,123.8l-.5,3.3-.6-1.2-.5-1.2-4.3,9.2 .5,1.9 .6,1.8 .5-3zM172.3,130.7l-.3-2.9-.4-2.9-4.3,10.5 .4,1.6 .3,1.5z"/>
<path color="#ef0" d="M57.3,104.7l-.3-3.2-4.2,5.9 .3,2.8zM65.3,110.8l-.2-3.8-4.5,.3 .3,2.9zM74,106.7l-.2-2.8-4.2,9.4 .3,3.3zM90,112.3l-.2-3.3-4.1,11.1 .2,2.8zM111.6,124.1l-.2-3.3-4.5-3.3 .3,2.8zM137.7,128.7l-.2-2.4-.2-2.2-4.3,3.2 .2,.4 .1,1zM146.3,129l-.2-2-.2-2-4.3,4 .2,3.1 .2,3.1zM155,123.4l-.3-2.6-.2-2.7-4.3,23.3 .3,1.4 .3,1.3zM173.8,135.6l-1.1-2-.4-2.9-4.3,7.8 .4,1.6 1.1,1.1z"/>
<path color="#df0" d="M57.6,107.8l-.3-3.1-4.2,5.5 .3,2.9zM65.6,114.5l-.3-3.7-4.4-.6 .2,2.9zM90.3,115.6l-.3-3.3-4.1,10.6 .2,2.7zM111.9,127.8l-.3-3.7-4.4-3.8 .2,3.5zM138.1,133.5l-.2-2.4-.2-2.4-4.4,0 .2,.9 .2,1zM155.5,128.2l-.2-2.1-.3-2.7-4.2,20.7 .3,1.4 .2,.5zM188.4,140.9l-1.1-.3-1.2-.3-1.1-.2-1.1-.2-1.2-.4-1.1-.5-1.1,0-1.1,0-1.2-.8-1.1-.8-1.1,.1-1.1,.1-1.1-2-4.3,5.6 1.1,1.2 1.1,.1 1.1,.1 1.2,.5 1.1,.6 1.1,.1 1.1,.1 1.2,.4 1.1,.4 1.1,.3 1.2,.2 1.1,.3 1.1,.3z"/>
<path color="#be0" d="M58.5,111.2l-.3-.1-.3-.2-.3-3.1-4.2,5.3 .3,2.8 .2-1.8 .2-1.8zM59.3,115.4l-.3-2.1-.2-2-4.5-.8 .3,2.9 .3,2.9zM65.9,118.3l-.3-3.8-4.5-1.4 .3,2.9zM96.8,127.2l-.3-3.6-4.6-5.4 .4,3.5zM112.1,131.4l-.2-3.6-4.5-4 .2,3.6zM130,126.4l-.2,2.1-.1,2.1-4.3,7.7 .2-2.9 .1-2.9zM138.7,140.6l-.2-2.4-.2-2.4-.2-2.3-4.4-2.9 .2,.9 .2,1 .2,.9zM156.2,134.6l-.2-2.1-.3-2.1-.2-2.2-4.2,17.8 .2,.4 .2,.5 .2,.5zM162.5,137.3l-.4,2.4-.3,2.4-4.3,1.5 .3-1.6 .4-1.6z"/>
<path color="#9e0" d="M66.4,123.9l-.2-2.8-.3-2.8-4.5-2.3 .2,1 .1,1zM76.2,115.9l-.1,1.5-.1,1.4-4.1,10.3 0-2.5 .1-2.5zM124.9,137l-.2-.6-.1-.6-4.5-5.7 .2,2.6 .2,2.6zM129.7,130.6l-.2,2.1-4.2,8.5 .1-2.9zM142,134.4l-.1,3.2-.1,3.2-4.4,1.3 .2-1.1 .2-1.2zM156.8,141.2l-.2-2.3-.2-2.2-.2-2.1-4.3,12.8 .2,.4 .3,.7 .2,.7zM161.8,142.1l-.4,.9-.3,1-.4,1-.2,2.6-4.3-3.8 .2-3.4 .3,1.1 .4,1 .4,1.1z"/>
<path color="#8e0" d="M66.7,126.7l-.3-2.8-4.7-5.9 .2,1zM76,118.8l-.1,1.4-4.1,11.3 .1-2.4zM104,131.7l0,4.7-4.5-3.1 .1-3.4zM125.3,138.2l-.2-.6-.2-.6-4.4-1.7 .2,2.6 .2,2.5zM129.5,132.7l-.5,3.1-4.2,8.6 .5-3.2zM141.8,140.8l-.2,4.2-4.3,.3 .1-3.2zM149,144.1l-.3-1.5-4.3-.3 .3-.6zM160.5,147.6l-.2,2.6-4.3-3 .2-3.4z"/>
<path color="#6e0" d="M67.2,132.3l-.3-2.8-.2-2.8-4.8-7.7 .2,1 .2,1zM75.9,120.2l-.1,1.4-.1,1.4-.3-2.7-4,12.9 .3,3.3 .1-2.5 0-2.5zM83.5,129.9l-.1,2-4.4-1 .1-2.8zM94.9,127.5l-.1,2.4-4.2,6.9 .1-2.9zM104,136.4l-.1,4.6-4.5-4.3 .1-3.4zM129,135.8l-.4,3.1-.4-1.7-4.2,7.9 .4,2.5 .4-3.2zM141.6,145l-.1,4.1-4.3-.7 .1-3.1zM160.3,150.2l-.2,2.5-4.3-2.1 .2-3.4z"/>
<path color="#09f" d="M70.6,149.1l0,2.1-.2,.2-.2,.2-.2,.2-.3,.1-4.7-9.4 .3,1.5 .2,1.5 .3,1.4 .3,1.5 0-3z"/>
<path color="#0cf" d="M70.7,147l-.1,2.1-4.5-3.7 0-2.9z"/>
<path color="#0ed" d="M70.8,142.8l0,2.1-.1,2.1-4.6-4.5 .1-3 0-3zM141.1,161.5l-.1,4.1-.2-3.1-4.4-6 .2,4.4 .2-3.1z"/>
<path color="#0e7" d="M70.9,140.7l-.1,2.1-4.6-6.3 0-3zM100.2,149.6l-.2,3.3-.2-2.6-4.6-9.2 .3,3.9 .1-3.5zM103.8,150.2l0,4.6-.2-3.4-4.6-9.2 .2,4.5 .1-3.3z"/>
<path color="#0e2" d="M71,138.6l-.1,2.1-4.7-7.2 .1-3.1zM94.4,136.2l-.2,3.1-4.2,7.3 .2-3.2zM100.3,146.3l-.1,3.3-4.6-8.1 .1-3.6zM103.9,145.6l-.1,4.6-4.5-6.8 .1-3.4zM141.2,157.4l-.1,4.1-4.3-3.7 .1-3.1z"/>
<path color="#2e1" d="M71.1,133.6l-.1,2.5 0,2.5-4.7-8.2 .1-.9 .1-.9zM83.3,133.9l-.1,2-4.4,.7 .1-2.8zM94.6,133l-.2,3.2-4.2,7.2 .2-3.3zM100.5,143l-.2,3.3-4.6-8.4 .2-3.6zM103.9,141l0,4.6-4.5-5.6 0-3.3zM141.4,153.3l-.2,4.1-4.3-2.7 .1-3.1z"/>
<path color="#4e0" d="M83.4,131.9l-.1,2-4.4-.1 .1-2.9zM94.8,129.9l-.2,3.1-4.2,7.1 .2-3.3zM113.3,143.1l-.1,1.4-.1,1.5-.3-3.7-4.4-4.2 .2,3.5 .1-2.4 .1-2.5zM122.2,140.9l-.2,1.6-.1,1.5-4.3,4.4 .1-3.5 .1-3.6zM141.5,149.1l-.1,4.2-4.4-1.7 .2-3.2zM160.1,152.7l-.2,2.6-.2,2.6-4.3-.5 .2-3.4 .2-3.4z"/>
<path color="#f00" d="M108.2,89.8l-.2-2.9-.1,5.2-4.2,8.5 0-6.4 .2,3.8z"/>
<path color="#f20" d="M108.4,92.8l-.2-3-4.3,8.2 .3,3.7zM153.2,96.9l-.2-3.8-4.3,18.6 .2,4.8z"/>
<path color="#df0" d="M46.9,107.8l-.4-2.2-4.2,6.5 .4,3.5zM48.2,103.8l.1,3.7-4.2,8.3-.1-5.2zM52.1,104.5l-.1,1.4-4,12.8 0-3.5zM53.1,110.2l-.3-2.8-4.3,5.9 .3,2.5zM54.6,113.4l-.3-2.9-.2,1.8-4.5,1.2 .1-3.7 .4,3.7zM58.5,109.1l-.4-.4-.5-.5-4,11.9 .4-.8 .4-.8zM62.5,122l-.2-1-.2-1-.2-1-.2-1-.1-1-.2-1-.3-2.9-4.6-1.4 .3,2 .1-.9 .1-.8 .1-.8 .1-.9 .1-.8 .1-.9zM66.9,111.8l0,4.4-4.5,1.4 0-4.5zM68.6,108.9l-.1,2.9-4.1,10.5 0-3.8zM69.6,113.3l-.3-3.4-4.1,8.8 .3,4zM72.4,112.1l-.1,2.4 0,2.4-4.4,5.1 .1-3.4 0-3.4zM73,114.7l-.2-2.4-4.4,4.1 .3,4.6zM74.8,111.1l0,2.7-4.1,11.5-.1-5.4zM77.7,121.7l-.3-3.7-4.6-5.3 .3,4.9zM79.3,119.9l-.1,2.6-4.6-3.6 .1-3.3zM80.7,122.1l-.2-3.2-4.6-3.7 .2,4.3zM82.1,119.1l0,4.8-4.6-3.4 0-5.2zM83.3,116.3l-.3-4.2-4.3,7.5 .5,8.4zM84,110.1l0,3.6-4.1,13.5-.1-5.8zM85.2,114.4l-.3-2.9-4.2,9.8 .3,3.9zM87.7,121.9l-.1,2.6-4.7-7.7 .1-3.7zM91.5,120.1l-.2,1-4.4,1.8 .1-3.4zM92.6,125.2l-.3-3.5-4.7-5.7 .3,3.4zM93.6,126.9l-.1,1.7-4.8-9.3 .1-3.4zM94.4,129.4l-.2-3.9-4.9-14.7 .3,5.3zM98.4,133.1l-.3-4.5-4.8-13.1 .3,5.8zM99.7,121.7l0,4.9-4.5-.6 0-4.3zM101.6,120.1l-.2,.2-4.3,5.6 .1-2.1zM102.8,123.6l-.3-2.1-4.4-.7 .2,5.2zM107.9,131l-.3-3.6-4.5-4.1 .2,3.5zM109.1,129.4l-.1,2.5-4.6-8.6 .1-3.5zM109.7,131.8l-.2-2.4-4.7-9.1 .2,3.9zM113.7,130.6l-.1,3.5-4.6-6.9 .1-4.4zM115.3,130.7l-.2-4.3-4.6-6.7 .3,6.8zM118.4,128.6l-.3,2.1-4.5-5.5 .2-3.2zM120.3,132.7l-.2-2.6-4.6-5.8 .3,4.6zM126,126.6l-.1,2.9-4.4,5.2 .2-3.8zM127.9,128.2l-.3-2.3-4.2,9.2 .2,4.1zM128.4,124.6l-.2,3-4.2,12 .1-3.7zM132.3,125.4l-.2-.5-.5-.4-.5-.5-.5-.5-.6-.6-.2-2-4.2,15.8 .3,4 .5-1 .5-1 .5-1 .4-1 .2-1.3zM138.8,126.5l-.1,2.9-4.3,10.3 .1-4.7zM141.8,132.1l-.2-3.1-4.3,4 .2,4.3zM145.2,135.5l-.3,3.1-4.4-2.6 .3-3.3zM146.9,131.2l-.1,2.4-.4-1.4-4.4,1.9 .4,4 .2-1.6zM156.7,141.5l-.3-1.1-.2,3.4-4.4-3.8 .2-4.3 .4,3.2zM158.9,135.9l-.4,2.9-4.3,3.9 .3-2.7zM165.1,131.6l-.6,3-.5,3-.6-1.8-.5-1.9-1.1-.2-4.3,9.8 1.1-.3 .5,2.5 .6,2.5 .5-2.6 .6-2.6zM168.4,140.1l-.4-1.6-.3-1.5-.4-1.6-.4-1.5-.3-1.5-4.4,13.3 .4,.1 .4,.2 .3,.2 .4,.1 .4,.2z"/>
<path color="#be0" d="M47.3,110.1l-.4-2.3-4.2,7.8 .5,3.6zM48.3,107.5l-.4,2.4-4.1,9.4 .3-3.5zM51.4,106.5l-.3-3.7-3.8,14.9 .4,5.8zM52,105.9l-.1,1.4-3.9,14.9 0-3.5zM53.4,113.1l-.3-2.9-4.3,5.6 .3,2.6zM54.1,112.3l-.2,1.8-4.4,3.1 .1-3.7zM54.9,116.3l-.3-2.9-4.5,.1 .3,3.7zM56.2,112.4l-.2-.6 0,2.2-4.3,6.2 .1-1.6 .3,2.6zM57.6,108.2l-.1,1.9-4,13.5 .1-3.5zM58.8,112.5l-.3-3.4-4.1,9.4 .3,4.9zM59.9,108.8l.1,5.1-4.1,10.9-.1-7.7zM62.8,124.7l-.3-2.7-5.1-13.4 .4,3.3zM66.9,116.2l0,4.4-4.4,1.5-.1-4.5zM68.1,114.3l-.2-3.1-4.2,8.7 .3,5.1zM68.5,111.8l0,2.8-4.1,11.6 0-3.9zM69.9,116.6l-.3-3.3-4.1,9.4 .3,4zM72.3,116.9l-.1,2.3-4.3,6.1 0-3.3zM73.2,117.2l-.2-2.5-4.3,6.3 .3,4.6zM74.8,113.8l-.1,2.6-4,14.2 0-5.3zM78,125.5l-.3-3.8-4.6-4.1 .3,4.9zM79.2,122.5l-.1,2.8-4.5-2.7 0-3.7zM81,125.2l-.3-3.1-4.6-2.6 .3,4.2zM84,113.7l-.1,3.7-4,15.6 0-5.8zM85.7,120.1l-.3-2.7-.2-3-4.2,10.8 .3,3.9 .2,2.2zM87.6,124.5l0,2.7-.2,1.1-4.6-4.1 .1-3.7 0-3.7zM89,129l-.3-6-4.7-6 .4,9.3zM91.3,121.1l-.2,1-.1,3-4.3,4.7 .1-3.5 .1-3.4zM92.9,128.7l-.3-3.5-4.7-5.8 .4,3.4zM93.5,128.6l-.1,1.8-4.7-7.7 0-3.4zM94.7,133.3l-.3-3.9-4.8-13.3 .3,5.3zM97.5,127.9l-.1,4.2-4.6-5.5 0-7.5zM99.7,126.6l-.1,3.3-4.5-1.8 .1-2.1zM103,125.8l-.2-2.2-4.5,2.4 .3,5.2zM103.6,119.7l0,6.3-4.1,13.3 0-7.4zM108.1,134.5l-.2-3.5-4.6-4.2 .3,3.5zM109,131.9l-.1,2.4-4.6-7.5 .1-3.5zM109.9,134.2l-.2-2.4-4.7-7.6 .3,3.9zM112.7,137.8l-.4-1.5-.2,1.5-4.7-10.2 .2-3.7 .5,4.1zM115.6,135l-.3-4.3-4.5-4.2 .3,6.7zM118.1,130.7l-.1,3.6-4.5-3.5 .1-5.6zM120.5,135.3l-.2-2.6-4.5-3.8 .2,4.6zM125.9,129.5l-.2,3-4.3,6 .1-3.8zM128.2,127.6l-.1,3-.2-2.4-4.3,11 .3,4.1 .1-3.7zM135.7,143.3l-.2-4.4-4.5-11.4 .2,5.8zM138.7,129.4l-.2,3-4.2,11.9 .1-4.6zM142,135.2l-.2-3.1-4.3,5.2 .2,4.2zM144.9,138.6l-.2,3.1-4.4-2.3 .2-3.4zM149.6,130.6l-.2-4.7-4.3,21.6 .2,5.7zM158.5,138.8l-.3,1.6-.4,1.6-.3,1.6-.4-1.1-.4-1-4.3-2.6 .4,3.1 .3,3.2 .4-.8 .3-.9 .4-.8zM184.1,145.8l-1.1-.3-1.1-.3-1.2-.2-1.1-.3-1.1-.4-1.2-.4-1.1-.1-1.1-.1-1.1-.6-1.2-.5-1.1-.1-1.1-.1-1.1-1.2-1.1-1.1-4.3,6.4 1.1,.3 1.1,.3 1.1,.3 1.1,.3 1.1,.3 1.2,.3 1.1,.3 1.1,.3 1.1,.3 1.2,.3 1.1,.3 1.1,.3 1.2,.3 1.1,.3z"/>
<path color="#9e0" d="M47.9,109.9l-.3,2.5-.3-2.3-4.1,9.1 .4,3.5 .2-3.4zM51.9,107.3l-.1,1.4-.1,1.4-.3-3.6-3.7,17 .4,5.7-.1-3.5 0-3.5zM53.9,114.1l-.2,1.8-.3-2.8-4.3,5.3 .3,2.5 .1-3.7zM55.2,119.2l-.3-2.9-4.5,.9 .3,3.8zM56,114l-.1,2.2 0,2.2-4.3,5.1 .1-1.7 0-1.6zM56.6,113.7l-.2-.7-.2-.6-4.1,8.8 .2,2.5 .3,2.6zM57.5,110.1l-.2,1.8-3.8,15.2 0-3.5zM59.1,115.8l-.3-3.3-4.1,10.9 .4,4.9zM63.1,127.4l-.3-2.7-5-12.8 .3,3.2zM68.5,114.6l-.1,2.9-.3-3.2-4.1,10.7 .4,5 0-3.8zM70.2,120l-.3-3.4-4.1,10.1 .3,3.9zM72.2,119.2l-.1,2.4-4.3,7 .1-3.3zM73.5,119.7l-.3-2.5-4.2,8.4 .4,4.5zM79.1,125.3l0,2.8-4.6-1.8 .1-3.7zM81.2,128.3l-.2-3.1-4.6-1.5 .3,4.3zM82.1,123.9l0,4.8-4.5-2.9-.1-5.3zM83.6,120.5l-.3-4.2-4.1,11.7 .4,8.3zM83.9,117.4l0,3.6-3.9,17.8-.1-5.8zM85.9,122.9l-.2-2.8-4.2,11.2 .3,2.2zM87.4,128.3l-.1,1.1-4.5-1.6 0-3.6zM91,125.1l-.1,2.9-4.3,5.3 .1-3.5zM93.4,130.4l-.2,1.8-.3-3.5-4.6-5.9 .3,3.4 .1-3.5zM94.9,137.2l-.2-3.9-4.8-11.9 .3,5.2zM96.2,133l-.2-2.3-.1,3.6-4.7-8.8 .1-3.9 .3,4.6zM98.7,137.7l-.3-4.6-4.8-11.8 .3,5.8zM99.6,129.9l-.1,3.4-4.5-3.1 .1-2.1zM103.2,127.9l-.2-2.1-4.4,5.4 .3,5.2zM108.4,138.1l-.3-3.6-4.5-4.2 .2,3.4zM108.9,134.3l-.1,2.4-4.6-6.4 .1-3.5zM110.1,136.6l-.2-2.4-4.6-6.1 .2,3.8zM112.1,137.8l-.3,1.6-4.6-8.1 .2-3.7zM113.1,139.4l-.4-1.6-4.6-9.8 .4,4zM113.6,134.1l-.1,3.4-4.6-5.9 .1-4.4zM118,134.3l-.1,3.5-4.4-1.5 0-5.5zM120.7,137.9l-.2-2.6-4.5-1.8 .3,4.6zM122.5,134.8l-.4-2.7-.2,3.4-4.3,4.3 .1-4 .4,3.5zM125.7,132.5l-.1,2.9-4.3,6.9 .1-3.8zM136,147.7l-.3-4.4-4.5-10 .3,5.7zM138.5,132.4l-.1,2.9-.2,1.1-.1,1.1-.2,1.2-4.3,7.5 .2,.9 .2,.9 .2,.9 .1-4.6zM142.2,138.4l-.2-3.2-4.3,6.3 .2,4.3zM144.7,141.7l-.3,.6-.4,.6-4.3,1.8 .3-2.7 .3-2.6zM149.8,135.3l-.2-4.7-4.3,22.6 .3,5.6zM154.5,148.2l-.2-3.1-.3,1.5-4.4-1.6 .3-3.2 .3,3.8zM156.2,143.8l-.2,3.4-4.4-3 .2-4.2z"/>
<path color="#fe0" d="M48.2,100l0,3.8-4.2,6.8-.1-5.2zM50.8,99.2l-.3-3.6-4,10.4 .4,5.8zM52.5,104.5l-.3-2.8-.1,1.4-4.1,8.6 0-3.6 .2,2.6zM60.6,107.3l-.3-2.9-4.4,1.2 .2,2zM67.6,108l-.3-3.1-4.3,4.8 .3,5.1zM69,106.5l-.3-3.3 0,2.8-4.2,8.6 0-3.9 .3,4zM74.9,105.9l0,2.6-4.3,6.1-.1-5.4zM76,112.7l-.2-2.4-4.6-.9 .3,1.8zM77.2,114.3l-.3,.2-4.7-5 .2-1.8zM79.6,112.1l-.1,2.6-4.7-5.7 .1-3.3zM80.2,115.8l-.2-3.2-4.7-6 .3,4.3zM83,112.1l-.3-4.2-4.4,3.3 .4,8.4zM84,106.4l0,3.7-4.2,11.3 0-5.9zM84.6,108.6l-.3-2.9-4.2,7.8 .3,3.9zM87.9,116.5l-.1,2.7-4.8-9.8 0-3.8zM94.2,125.5l-.3-4-.1,1.8-4.9-14.3 0-3.5 .4,5.3zM97.6,119.4l-.1,4.3-4.8-12.2 0-7.6zM101.2,116.4l-.3-3.8-4.4,4.7 .3,4.3zM102.3,119.3l-.2,.2-4.5-1.9 .2-2zM104.9,112.9l-.2-3.7-4.3,10.6 .3,4.6zM105.4,112.4l-.1,2.1-4.3,10.1 .1-4.3zM107.4,123.8l-.2-3.5-.3-2.8-4.5-3.3 .2,2.2 .2,3.4zM113.9,123.6l-.1,3.5-4.7-8.8 .1-4.5zM115.1,126.4l-.4-2.1-.4-2.1-4.6-9.4 .4,3.5 .4,3.4zM119.5,127.3l-.5-2.9-.3,2.1-4.6-7.7 .3-3.2 .6,4.4zM127.2,121.3l-.3-2.4-.4,3.9-4.4,4 .4-4.1 .3,4.1zM128.6,118.6l-.1,3-4.3,10.5 .1-3.8zM129.6,118.8l-.3-2.1-4.2,12.1 .2,4zM139.1,120.7l-.1,2.9-4.4,6.7 .2-4.7zM141.4,125.8l-.5-1.6-4.4,3.3 .6,1.2zM146,130.7l-.3-1.5-.3,3.2-4.4-3.1 .2-3.4 .4,4.1zM147.4,123.8l-.2,2.5-4.3,6.9 .2-1.6zM149.1,121.2l-.2-4.7-4.2,19.6 .2,5.7zM160.2,131.1l-.6-1-4.3,4.4 .5,2.4z"/>
<path color="#fc0" d="M48.2,96.3l0,3.7-4.3,5.4-.1-5.2zM49.6,95.5l-.1,2.4-.2-2.1-4.3,6.6 .3,3.6 .1-2.9zM59.8,98.6l.1,5.1-4.3,5.7-.2-7.8zM60.3,104.4l-.2-2.9-4.5,2.1 .3,2zM66.8,103l0,4.4-4.4,1.2-.1-4.6zM67.3,104.9l-.2-3.2-4.4,2.9 .3,5.1zM75,103.2l-.1,2.7-4.4,3.3 0-5.4zM75.8,110.3l-.3-2.3-.2-2.4-4.6,0 .3,1.9 .2,1.9zM80,112.6l-.3-3.1-.1,2.6-4.7-6.4 .1-3.4 .3,4.3zM82.1,109.3l0,4.9-4.6-4.1 0-5.3zM84.3,105.7l-.2-3-.1,3.7-4.2,9.1 0-5.9 .3,3.9zM87.9,113.8l0,2.7-4.9-10.9 .1-3.7zM97.9,124l-.3-4.6-4.9-15.5 .3,5.8zM99.8,111.9l-.1,4.9-4.4,.6 0-4.4zM100.9,112.6l-.3-3.9-4.3,4.2 .2,4.4zM103.6,107l0,6.4-4.2,11 0-7.6zM105.5,110.3l-.1,2.1-4.3,7.9 0-4.2zM106.9,117.5l-.2-2.7-4.5-2.8 .2,2.2zM114.3,122.2l-.3-2.1-.1,3.5-4.7-9.8 .1-4.5 .4,3.5zM128.7,115.6l-.1,3-4.3,9.7 .1-3.7zM129.3,116.7l-.2-2-4.3,10.1 .3,4zM140.9,124.2l-.5-1.7-.6-2.4-4.4,3.5 .6,2.7 .5,1.2zM147.7,118.8l-.2,2.5-.1,2.5-4.3,7.8 .1-1.6 .2-1.6z"/>
<path color="#fa0" d="M48.2,92.5l0,3.8-4.4,3.9-.1-5.3zM49.3,95.8l-.3-2.2-4.3,5.2 .3,3.6zM49.7,93.1l-.1,2.4-4.2,7.6 .1-3zM50.5,95.6l-.3-3.6-4.1,8.1 .4,5.9zM60.1,101.5l-.3-2.9-4.4,3 .2,2zM67.1,101.7l-.3-3.2 0,4.5-4.5,1 0-4.5 .4,5.1zM75.3,105.6l-.3-2.4-4.5,.6 .2,1.8zM82.1,104.4l0,4.9-4.6-4.5 0-5.3zM82.7,107.9l-.3-4.2-4.5-1 .4,8.5zM88.3,117.1l-.3-6-.1,2.7-4.8-11.9 0-3.8 .5,9.5zM99.8,107l0,4.9-4.5,1.1 0-4.3zM100.6,108.7l-.2-3.9-4.4,3.8 .3,4.3zM104.7,109.2l-.3-3.7-4.2,9.8 .2,4.5zM105.6,108.1l-.1,2.2-4.4,5.8 .1-4.3zM106.7,114.8l-.2-2.7-4.5-2.3 .2,2.2zM129.1,114.7l-.2-2.1-.2,3-4.3,9 .1-3.8 .3,4zM139.8,120.1l-.5-2.4-.2,3-4.3,4.9 .1-4.7 .5,2.7zM148.9,116.5l-.2-4.8-.1,1.2-.2,1.2-.2,1.2-.2,1.2-.1,1.1-.2,1.2-4.3,9.6 .2,.3 .1,.3 .2,.3 .2,.4 .2,.3 .2,.3 .2,5.8z"/>
<path color="#f60" d="M48.1,88.8l.1,3.7-4.5,2.4-.1-5.3zM48.8,91.5l-.2-2.2-4.5,2.3 .3,3.6zM49.9,88.3l-.1,2.4-4.2,6.5 0-3zM82.4,103.7l-.3-4.2 0,4.9-4.6-4.9-.1-5.4 .5,8.6zM100.4,104.8l-.3-3.9-4.4,3.3 .3,4.4zM104.2,101.7l-.3-3.7-4.3,8.2 .3,4.6zM106,106.6l-.2-2.8-.1,2.2-4.4,1.5 0-4.4 .2,2.3z"/>
<path color="#f40" d="M48.6,89.3l-.3-2.1-.2-2.2 0,3.8-4.5,.8-.1-5.3 .3,3.7 .3,3.6zM100.1,100.9l-.2-3.9-.1,5-4.4,2.3 0-4.4 .3,4.3zM103.9,98l-.2-3.8 0,6.4-4.3,8.7-.1-7.6 .3,4.5z"/>
<path color="#f90" d="M49,93.6l-.2-2.1-4.4,3.7 .3,3.6zM49.8,90.7l-.1,2.4-4.2,7 .1-2.9zM50.2,92l-.3-3.7-4.3,5.9 .5,5.9zM99.8,102l0,5-4.5,1.7 .1-4.4zM103.7,100.6l-.1,6.4-4.2,9.8 0-7.5zM104.4,105.5l-.2-3.8-4.3,9.1 .3,4.5zM105.7,106l-.1,2.1-4.4,3.7 .1-4.3zM106.5,112.1l-.2-2.8-.3-2.7-4.5-1.2 .2,2.2 .3,2.2z"/>
<path color="#ef0" d="M51.1,102.8l-.3-3.6-3.9,12.6 .4,5.9zM52.1,103.1l0,1.4-4.1,10.7 0-3.5zM52.8,107.4l-.3-2.9-4.3,6.2 .3,2.6zM59.9,103.7l0,5.1-4.1,8.3-.2-7.7zM61.1,113.1l-.2-2.9-.3-2.9-4.5,.3 .2,2 .2,2.1zM66.8,107.4l.1,4.4-4.5,1.3 0-4.5zM67.9,111.2l-.3-3.2-4.3,6.8 .4,5.1zM68.7,106l-.1,2.9-4.2,9.6 .1-3.9zM69.3,109.9l-.3-3.4-4.2,8.2 .4,4zM72.8,112.3l-.3-2.5-.1,2.3-4.4,3.1 .1-3.3 .3,4.5zM74.9,108.5l-.1,2.6-4.2,8.8 0-5.3zM76.9,114.5l-.3,.3-.3,.2-.3-2.3-4.5-1.5 .2,1.9 .3-1.8 .2-1.8zM77.4,118l-.2-3.7-4.8-6.6 .4,5zM79.5,114.7l-.1,2.6-.1,2.6-4.6-4.3 .1-3.3 0-3.3zM80.5,118.9l-.3-3.1-4.6-4.9 .3,4.3zM82.1,114.2l0,4.9-4.6-3.8 0-5.2zM84.9,111.5l-.3-2.9-4.2,8.8 .3,3.9zM87.8,119.2l-.1,2.7-4.7-8.8 0-3.7zM88.7,123l-.4-5.9-4.7-9.5 .4,9.4zM92.3,121.7l-.4-3.5-.2,.9-.2,1-4.5-.6 .1-3.4 .2-3.5 .3,3.4zM93.8,123.3l-.1,1.8-.1,1.8-4.8-11 0-3.5 .1-3.4zM97.5,123.7l0,4.2-4.7-8.8-.1-7.6zM98.1,128.6l-.2-4.6-4.9-14.3 .3,5.8zM99.7,116.8l0,4.9-4.5,0 .1-4.3zM101.4,120.3l-.2-3.9-4.4,5.2 .3,4.3zM102.1,119.5l-.1,.2-.2,.2-.2,.2-4.4,3.7 .1-2 .2-2.1 .1-2.1zM102.5,121.5l-.2-2.2-4.5-3.7 .3,5.2zM103.6,113.4l0,6.3-4.1,12.2-.1-7.5zM105.3,114.5l-.2,2.1-.2-3.7-4.2,11.5 .3,4.5 0-4.3zM107.6,127.4l-.2-3.6-4.6-4 .3,3.5zM109.5,129.4l-.3-2.4-.1,2.4-4.6-9.6 0-3.4 .3,3.9zM113.8,127.1l-.1,3.5-4.6-7.8 0-4.5zM118.7,126.5l-.3,2.1-4.6-6.6 .3-3.2zM120.1,130.1l-.6-2.8-4.5-7.3 .5,4.3zM126.5,122.8l-.5,3.8-4.3,4.3 .4-4.1zM127.6,125.9l-.2-2.3-.2-2.3-4.4,5.5 .3,4.2 .3,4.1zM128.5,121.6l-.1,3-4.3,11.3 .1-3.8zM129.8,120.9l-.2-2.1-4.3,14 .3,3.9zM135.5,138.9l-.2-4.5-.3-.3-.4-.3-.3-.4-.2-.9-.2-1-.2-.9-.2-1-.2-.9-.1-1-.2-.4-.2-.5-.2-.5-.1-.4-.2-.5-4.3,10 .2-1.2 .1-1.2 .2-1.3 .1-1.2 .2-1.3 .1-.5 .2-.5 .2-.5 .1-.5 .2-.5 .2-.5 .3-1.5 .3-1.5 .3-1.5 .3,5.8zM139,123.6l-.2,2.9-4.3,8.5 .1-4.7zM141.6,129l-.2-3.2-4.3,2.9 .2,4.3zM145.4,132.4l-.2,3.1-4.4-2.8 .2-3.4zM146.4,132.2l-.4-1.5-4.4-.7 .4,4.1zM147.2,126.3l-.1,2.4-.2,2.5-4.3,5.3 .1-1.6 .2-1.7zM149.4,125.9l-.3-4.7-4.2,20.6 .2,5.7zM159.6,130.1l-.4,2.9-.3,2.9-4.4,4.1 .4-2.7 .4-2.8zM161.8,133.7l-1.1-1.6-.5-1-4.4,5.8 .6,2.4 1.1,4.2zM166.6,132.4l-.4-1.6-.6,.4-.5,.4-4.3,11.4 .5,1.3 .6,1.2 .3,.2z"/>
<path color="#8e0" d="M55.5,122l-.3-2.8-4.5,1.8 .4,3.7zM55.9,118.4l-.1,2.1-4.3,4.6 .1-1.6zM56.9,114.9l-.2-.6-.1-.6-4,12.6 .2,2.6 .3,2.6zM57.3,111.9l-.1,1.8-.1,1.8-3.8,18.6 .1-3.5 .1-3.5zM59.3,119.1l-.2-3.3-4,12.5 .3,4.8zM60,113.9l0,5-3.9,13.6-.2-7.7zM63.4,130.1l-.3-2.7-5-12.3 .4,3.3zM66.9,120.6l0,4.4-.1,.9-.1,.9-.1,.9-.1,.9-.1,.9-4.8-6.6 .2,.7 .2,.7 .1,.8 .2,.7 .2,.8 0-4.5zM70.5,123.3l-.3-3.3-4.1,10.6 .4,3.9zM72.1,121.6l-.1,2.5-4.2,8.1 0-3.6zM73.7,122.1l-.2-2.4-4.1,10.4 .3,4.5zM74.7,116.4l-.1,2.6-.2,1.9-3.9,16.1 .3-1.1-.1-5.3zM78.3,129.2l-.3-3.7-4.6-3 .3,5zM79.1,128.1l-.1,2.8-4.5-1 0-3.6zM82.1,128.7l-.4-.2-.5-.2-4.5-.3 .5-1.1 .4-1.1zM86.1,125.6l-.2-2.7-4.1,10.6 .2,2.2zM87.3,129.4l-.1,1.1-4.4,1 0-3.7zM89.3,134.9l-.3-5.9-4.6-2.7 .5,9.3zM90.9,128l-.1,2.9-4.3,5.9 .1-3.5zM95.9,134.3l-.2,3.6-4.7-8.6 .2-3.8zM96.4,135.3l-.2-2.3-4.6-6.8 .3,4.5zM97.4,132.1l0,4.1-4.5-2.1-.1-7.5zM99,142.2l-.3-4.5-4.8-10.6 .4,5.7zM99.5,133.3l-.1,3.4-4.5-4.4 .1-2.1zM103.4,130.1l-.2-2.2-4.3,8.5 .3,5.1zM103.6,126l0,6.2-4.1,14.5 0-7.4zM108.6,141.6l-.2-3.5-4.6-4.4 .3,3.5zM108.8,136.7l-.1,2.5-4.6-5.5 .1-3.4zM110.3,139l-.2-2.4-4.6-4.7 .3,3.9zM111.8,139.4l-.3,1.5-4.6-5.9 .3-3.7zM113.5,137.5l-.1,3.5-.3-1.6-4.6-7.4 .4,4.1 0-4.5zM115.8,139.4l-.2-4.4-4.5-1.8 .3,6.7zM117.9,137.8l-.1,3.5-4.4,.5 .1-5.5zM120.9,140.4l-.2-2.5-4.4,.2 .3,4.6zM121.9,135.5l-.2,3.4-4.3,4.9 .2-4zM123.2,140.1l-.3-2.7-.4-2.6-4.4,4.5 .4,3.5 .4,3.6zM125.6,135.4l-.2,2.9-4.3,7.8 .2-3.8zM137.9,138.7l-.1,1.1-.2,1.2-.2,1.1-.1,3.2-4.4,.2 .2-2.1 .2,.9 .1,.9 .2,1zM142.4,141.5l-.2-3.1-4.3,7.4 .3,4.3zM144,142.9l-.3,.6-.4,.3-4.3,5.8 .3-2.3 .4-2.6zM154,146.6l-.3,1.6-.2,1.5-4.4,1.8 .3-3.2 .2-3.3zM154.8,151.3l-.3-3.1-4.3-2.6 .3,3.8zM156,147.2l-.2,3.4-4.4-2.1 .2-4.3z"/>
<path color="#6e0" d="M55.8,120.5l0,2.2-.1,2.2-.2-2.9-4.4,2.7 .3,3.7 .1-1.7 0-1.6zM57.1,115.5l-.2-.6-3.8,16.6 .2,2.6zM63.7,132.8l-.3-2.7-4.9-11.7 .3,3.2zM66.4,129.5l-.1,.9-.1,3.1-4.7-7.4-.1-4 .2,.8zM70.8,126.6l-.3-3.3-4,11.2 .3,3.9zM72,124.1l-.1,2.5-4.1,9.2 0-3.6zM74.4,120.9l-.2,1.8-.3,1.9-.2-2.5-4,12.5 .3,4.6 .2-1.1 .3-1.1zM78.5,132.9l-.2-3.7-4.6-1.7 .3,4.9zM79,130.9l-.1,2.9-4.5-.2 .1-3.7zM83.9,121l-.1,3.6-.2-4.1-4,15.8 .4,8.3 0-5.8zM86.6,131.1l-.2-2.7-.3-2.8-4.1,10.1 .2,2.2 .2,2.2zM87.2,130.5l-.1,1.2-.1,1.1-4.3,5.9 0-3.6 .1-3.6zM90.8,130.9l-.1,3-4.3,6.4 .1-3.5zM95.2,141.1l-.3-3.9-4.7-10.6 .3,5.2zM95.7,137.9l-.1,3.6-4.7-8.3 .1-3.9zM96.7,137.6l-.3-2.3-4.5-4.6 .2,4.6zM97.4,136.2l0,4.2-4.5,1.1 0-7.4zM99.4,136.7l0,3.3-.1,3.4-4.6-7 .1-2 .1-2.1zM103.6,132.2l-.2-2.1-4.2,11.4 .3,5.2zM108.7,139.2l-.1,2.4-4.5-4.4 0-3.5zM111.5,140.9l-.5,.3-.5,.2-.2-2.4-4.5-3.2 .2,3.9 .5-2.4 .4-2.3zM116.1,143.7l-.3-4.3-4.4,.5 .3,6.6zM121.1,143l-.2-2.6-4.3,2.3 .2,4.6zM121.7,138.9l-.2,3.3-4.3,5.7 .2-4.1zM123.6,142.6l-.4-2.5-4.3,6.3 .4,3.3zM125.4,138.3l-.1,2.9-4.3,8.6 .1-3.7zM136.2,152.1l-.2-4.4-4.5-8.7 .2,5.7zM137.3,145.3l-.1,3.1-4.4-.7 .1-2.2zM143.3,143.8l-.3,.4-.4,.4-.2-3.1-4.2,8.6 .2,4.2 .3-2.3 .3-2.4zM150.2,141.4l-.2-1.4-.2-4.7-4.2,23.5 .2,5.7 .3,.1zM153.5,149.7l-.3,1.5-.2-.6-.2-.7-.2-.7-.2-.7-.3-.7-4.2,11.2 .2-.9 .2-.8 .2-.9 .2-.9 .2-.8 .2-3.2zM155.1,154.3l-.3-3-4.3-1.9 .3,3.8zM155.8,150.6l-.2,3.4-4.4-1.3 .2-4.2z"/>
<path color="#4e0" d="M59.6,122.4l-.3-3.3-3.9,14 .4,4.9zM60,118.9l.1,5.1-3.8,16.1-.2-7.6zM64.2,136l-.5-3.2-4.9-11.2 .5,3.7zM66.2,133.5l0,3-4.7-6.5 0-3.9zM71.9,126.6l0,2.5-4.1,10.3 0-3.6zM78.9,133.8l-.1,2.8-.3-3.7-4.5-.5 .4,4.8 0-3.6zM87,132.8l-.1,1.1-.3-2.8-4.2,9 .3,2.2 0-3.6zM89.6,140.8l-.3-5.9-4.4,.7 .4,9.2zM90.7,133.9l-.1,2.9-4.2,7 0-3.5zM95.6,141.5l-.1,3.5-.3-3.9-4.7-9.3 .3,5.2 .1-3.8zM96.9,139.9l-.2-2.3-4.6-2.3 .3,4.6zM99.3,143.4l-.1,3.3-.2-4.5-4.7-9.4 .3,5.7 .1-2.1zM117.8,141.3l-.1,3.6-4.3,2.4 0-5.5zM121.5,142.2l-.2,3.4-.2-2.6-4.3,4.3 .3,4.6 .1-4zM124,145.1l-.4-2.5-4.3,7.1 .4,3.3zM125.3,141.2l-.5,3.2-4.3,8.6 .5-3.2zM136.4,156.5l-.2-4.4-4.5-7.4 .3,5.8zM137.2,148.4l-.2,3.2-.1,3.1-4.4-2.8 .1-2.1 .2-2.1zM152.1,147.8l-.2-.4-.2-.5-.2-.5-.2-.4-.2-.5-.3-1.4-.3-1.3-.3-1.4-4.1,23.2 .2,.1 .3,.1 .2,.1 .2-1.1 .3-1.2 .2-1.2 .2-1.2 .2-1.2zM155.6,154l-.2,3.4-.3-3.1-4.3-1.1 .2,3.8 .2-4.3z"/>
<path color="#2e1" d="M59.9,125.7l-.3-3.3-3.8,15.6 .3,4.8zM64.6,139.3l-.4-3.3-4.9-10.7 .4,3.8zM66.2,136.5l0,3-4.7-5.6 0-3.9zM71.1,129.9l-.3-3.3-4,11.8 .3,3.9zM71.9,129.1l-.1,2.4-4,11.5 0-3.6zM90.6,136.8l-.2,3.3-4.2,7.1 .2-3.4zM97.1,142.3l-.2-2.4-4.5,0 .3,4.5zM97.4,140.4l-.1,4.2-4.3,4.3-.1-7.4zM116.3,148l-.2-4.3-4.4,2.8 .3,6.6zM117.7,144.9l-.1,3.5-4.3,4.4 .1-5.5zM124.8,144.4l-.4,3.2-.4-2.5-4.3,7.9 .4,3.3 .4-3.3zM136.9,154.7l-.1,3.1-4.5-3.8 .2-2.1z"/>
<path color="#0e2" d="M60.1,124l.1,5-.3-3.3-3.8,17.1 .4,4.8-.2-7.5zM65,142.5l-.4-3.2-4.9-10.2 .4,3.7zM66.2,139.5l-.1,3-4.6-4.7 0-3.9zM71.4,133.2l-.3-3.3-4,12.4 .3,3.9zM71.8,131.5l0,2.5-4,12.5 0-3.5zM90.4,140.1l-.2,3.3-4.2,7.2 .2-3.4zM97.3,144.6l-.2-2.3-4.4,2.1 .3,4.5zM116.6,152.2l-.3-4.2-4.3,5.1 .3,6.6zM117.6,148.4l-.1,3.5-4.3,6.3 .1-5.4zM136.8,157.8l-.2,3.1-.2-4.4-4.4-6 .2,5.6 .1-2.1z"/>
<path color="#0e7" d="M65.5,145.5l-.2-1.5-.3-1.5-4.9-9.7 .4,3.2 .3,3.2zM66.1,142.5l0,2.9-4.6-3.7 0-3.9zM71.8,134l-.1,2.5-.3-3.3-4,13 .4,3.9 0-3.6zM90.2,143.4l-.2,3.2-.4-5.8-4.3,4 .5,9.2 .2-3.4zM117.5,151.9l-.9,.3-4.3,7.5 .9-1.5z"/>
<path color="#0ed" d="M65.8,146.9l-.3-1.4-4.7-6.3 .4,3.2zM66.1,145.4l0,3-4.6-2.8 0-3.9z"/>
<path color="#0cf" d="M66.1,148.4l-.3-1.5-4.6-4.5 .3,3.2z"/>
<path fill="none" stroke="#8c8c8c" stroke-width=".4" stroke-opacity=".7" d="M170.4,114.4L157.5,143.5M149,115.2L136,126.3M128.9,141.4L115.5,124.3M108.6,91.5L95.4,99.9M91.1,134.6L77.6,125.8M74.4,161.2L60.1,132.8"/>
<path fill="none" stroke="#858585" stroke-width=".55" d="M179.8,150.7l-1.1-.3-1.2-.3-1.1-.3-1.1-.3-1.2-.3-1.1-.3-1.1-.3-1.1-.3-1.2-.3-1.1-.3-1.1-.3-1.1-.3-1.1-.3-1.1-.3-1.1-.5-1.1-.5-1.1-2.5-1.1,5.2-1.1-5-1.1,.3-1.1-4.2-1.1-4.8-1.1,8.2-1.1,2.5-1.1-9.5-1,21.3-1.1-15.2-1,12.9-1,4.3-1.1,5.9-1-.4-1.3-34.2-1.1-1.9-1,9.7-1.2-12.2-.9,13.5-1,7.9-.9,7-1.3-25.6-1.1-2.4-1.1-5.4-.7,28-1.1-5.5-.9,12.7-1.5-34.4-.9,4.5-1,3-1,7.5-.9,2-1,2-1.4-19.9-.6,22.5-1.4-20.6-.8,8.2-.7,18.9-.9,6.5-1.2-9.9-1.2-10.6-.6,16.1-1.6-27.6-1.1-8.7-.8,9.6-.4,33-.9,1.5-1.8-40-1.2-10.4-.4,26.8-1.3-12.2-.7,11.1-.9,4.7-1.5-23.3-.4,20.8-1.5-20.8-1.3-13.3-.3,25.8-1.7-27.2 .2,45-1.7-31.1-.7,10.3-1.7-26-.2,26.1-.6,12.5-1.9-34.6 .3,45-1.7-27.3-.5,15.4-1.9-31.5-.3,20.7-1.3-13.6-.5,13.7-.4,17.5-.6,10.2-2.7-55.9-.2,22.4-.2,21.8-1.4-13.2-1.5-19.5 .2,35-2.6-50.5 .2,31.7-.9,2.2-1.7-25.7-.4,16.6-.2,18.3-2-29.5-.7,5.4-1.2-9.3 .3,32.1-.8,3.3-1.9-27.3-.3,16.7 0,21.5-1.7-19.5-1.6-19.9-.1,19.3-2.1-30.5 .2,27.1-1.1-4.5 .1,23.5-1.4-12.8-1.3-11.2-1.4-13-.6,5.1-1.4-12.1 1.1,46-2.1-29.1-.8,1.6-.3,14-1.5-15.5-.4,9.8-1.7-18.6-.3,11.1-1.4-12.8 .1,21.1-2.5-35-.3,11.8-1.8-21.7 .6,31.5-.5,6.9-1.3-10.6"/>
</g>
<path d="M45.5,181.4L37.9,18.4M179.4,227.8L45.5,181.4M179.4,227.8L285,174.2" stroke="#1a1a1a" stroke-width=".85" fill="none"/>
<g style="font-family:'Liberation Serif',serif;font-weight:bold;font-size:10.3px" text-anchor="end">
<text transform="matrix(.988,-.15,.04,1,40.0,178.0)">-40</text>
<text transform="matrix(.988,-.15,.04,1,38.4,144.6)">-20</text>
<text transform="matrix(.988,-.15,.04,1,36.8,110.3)">0</text>
<text transform="matrix(.988,-.15,.04,1,35.2,75.1)">20</text>
<text transform="matrix(.988,-.15,.04,1,33.5,39.0)">40</text>
</g>
<text transform="translate(12.5,108.4) scale(.86,1) rotate(90)" text-anchor="middle" style="font-family:'Liberation Serif',serif;font-weight:bold;font-size:11.9px">Fx(eV/Å)</text>
<text transform="matrix(0.924,-0.381,1.134,0.393,167.2,228.2)" text-anchor="end" style="font-family:'Liberation Serif',serif;font-weight:bold;font-size:9.8px">20000</text>
<text transform="matrix(0.924,-0.381,1.134,0.393,146.0,220.9)" text-anchor="end" style="font-family:'Liberation Serif',serif;font-weight:bold;font-size:9.8px">40000</text>
<text transform="matrix(0.924,-0.381,1.134,0.393,125.7,213.8)" text-anchor="end" style="font-family:'Liberation Serif',serif;font-weight:bold;font-size:9.8px">60000</text>
<text transform="matrix(0.924,-0.381,1.134,0.393,106.3,207.1)" text-anchor="end" style="font-family:'Liberation Serif',serif;font-weight:bold;font-size:9.8px">80000</text>
<text transform="matrix(0.924,-0.381,1.134,0.393,87.6,200.6)" text-anchor="end" style="font-family:'Liberation Serif',serif;font-weight:bold;font-size:9.8px">100000</text>
<text transform="matrix(0.924,-0.381,1.134,0.393,69.7,194.5)" text-anchor="end" style="font-family:'Liberation Serif',serif;font-weight:bold;font-size:9.8px">120000</text>
<text transform="matrix(0.924,-0.381,1.134,0.393,52.6,188.5)" text-anchor="end" style="font-family:'Liberation Serif',serif;font-weight:bold;font-size:9.8px">140000</text>
<text transform="matrix(0.961,0.277,0.250,0.680,184.9,232.0)" text-anchor="start" style="font-family:'Liberation Serif',serif;font-weight:bold;font-size:9.6px">0</text>
<text transform="matrix(0.961,0.277,0.250,0.680,209.2,219.7)" text-anchor="start" style="font-family:'Liberation Serif',serif;font-weight:bold;font-size:9.6px">5</text>
<text transform="matrix(0.961,0.277,0.250,0.680,231.7,208.3)" text-anchor="start" style="font-family:'Liberation Serif',serif;font-weight:bold;font-size:9.6px">10</text>
<text transform="matrix(0.961,0.277,0.250,0.680,252.7,197.7)" text-anchor="start" style="font-family:'Liberation Serif',serif;font-weight:bold;font-size:9.6px">15</text>
<text transform="matrix(0.961,0.277,0.250,0.680,272.2,187.7)" text-anchor="start" style="font-family:'Liberation Serif',serif;font-weight:bold;font-size:9.6px">20</text>
<text transform="matrix(0.961,0.277,0.250,0.680,290.5,178.5)" text-anchor="start" style="font-family:'Liberation Serif',serif;font-weight:bold;font-size:9.6px">25</text>
<path d="M45.2,174.0l-3.6,0.6M43.6,140.6l-3.6,0.6M42.0,106.3l-3.6,0.6M40.4,71.1l-3.6,0.6M38.7,35.0l-3.6,0.6M168.4,224.0l-3.2,1.6M147.2,216.6l-3.2,1.6M126.9,209.6l-3.2,1.6M107.5,202.8l-3.2,1.6M88.9,196.4l-3.2,1.6M71.0,190.2l-3.2,1.6M53.8,184.3l-3.2,1.6M179.4,227.8l3.4,1.2M203.7,215.4l3.4,1.2M226.2,204.0l3.4,1.2M247.1,193.4l3.4,1.2M266.7,183.5l3.4,1.2M285.0,174.2l3.4,1.2" stroke="#111" stroke-width=".8" fill="none"/>
<text transform="matrix(0.945,0.327,-1.070,0.543,61.9,221.5)" text-anchor="middle" style="font-family:'Liberation Serif',serif;font-weight:bold;font-size:10.5px">Steps</text>
<text transform="matrix(0.820,-0.416,1.134,0.393,263.9,208.1)" text-anchor="middle" style="font-family:'Liberation Serif',serif;font-weight:bold;font-size:10.0px">Cutting angle(°)</text>
<linearGradient id="ga" x1="0" y1="0" x2="0" y2="1"><stop offset="0.000" stop-color="#300040"/><stop offset="0.012" stop-color="#580068"/><stop offset="0.040" stop-color="#8000a0"/><stop offset="0.100" stop-color="#7000e8"/><stop offset="0.155" stop-color="#0000ff"/><stop offset="0.215" stop-color="#0070ff"/><stop offset="0.275" stop-color="#00e8ff"/><stop offset="0.325" stop-color="#00e810"/><stop offset="0.400" stop-color="#78e800"/><stop offset="0.500" stop-color="#ffff00"/><stop offset="0.575" stop-color="#ff9000"/><stop offset="0.645" stop-color="#ff0800"/><stop offset="0.780" stop-color="#ff0000"/><stop offset="0.900" stop-color="#a80000"/><stop offset="1.000" stop-color="#600000"/></linearGradient>
<rect x="300.1" y="8.8" width="20.7" height="152.2" fill="url(#ga)"/>
<rect x="300.1" y="8.8" width="20.7" height="1" fill="#000"/>
<g style="font-family:'Liberation Serif',serif;font-weight:bold;font-size:8.7px">
<text x="324.3" y="13.4">-44.50</text>
<text x="324.3" y="28.6">-35.50</text>
<text x="324.3" y="43.7">-26.50</text>
<text x="324.3" y="58.9">-17.50</text>
<text x="324.3" y="74.0">-8.500</text>
<text x="324.3" y="89.2">0.5000</text>
<text x="324.3" y="104.4">9.500</text>
<text x="324.3" y="119.5">18.50</text>
<text x="324.3" y="134.7">27.50</text>
<text x="324.3" y="149.8">36.50</text>
<text x="324.3" y="165.0">45.50</text>
</g>
<g stroke="#000" stroke-opacity=".8" stroke-width=".5" stroke-linejoin="round">
<path fill="#0000ff" d="M585,209.5L585.1,209.5L585.2,209.5L585.2,189.8L585.1,189L585.1,189.8zM603.5,209.5L603.7,209.5L603.5,208.8z"/>
<path fill="#0080ff" d="M458,209.5L459.4,209.5L460.7,209.5L459.4,192.3zM529.7,209.5L529.8,209.5L529.9,209.5L529.8,208.4zM583.9,209.5L585,209.5L585.1,189.8L585.1,189L585.2,189.8L585.2,209.5L586.4,209.5L586.8,202.6L587.8,209.5L588.5,209.5L590.1,209.5L591.8,209.5L592,209.5L591.9,189.8L592.1,170.1L591.8,167.9L590.5,150.4L590.1,146.4L588.5,142L586.8,149.1L586.3,150.4L585.1,158L584.5,150.4L583.4,140.2L582.1,150.4L583.4,167.4L583.7,170.1L584,189.8zM602.5,209.5L603.5,209.5L603.5,208.8L603.7,209.5L605.2,209.5L605.9,209.5L605.7,189.8L605.2,186.2L604.6,189.8L603.5,196.6zM485.9,150.4L486.2,152.2L487,150.4L486.2,145.1zM568.5,150.4L570,167L571.7,160.8L572.5,150.4L571.7,132L570,138.8zM526.3,130.7L526.5,132.6L526.6,130.7L526.5,127.2zM557.9,130.7L558.3,142.2L559.4,130.7L558.4,111L558.3,110.1L556.6,108.1L554.9,103.1L554.2,111L554.9,118.1L556.6,114.3zM553.2,71.5L553.3,74.9L553.5,71.5L553.3,70.5zM581,71.5L581.8,74.7L583.1,71.5L583.4,67.5L583.7,71.5L585.1,76L585.5,71.5L585.2,51.8L585.2,32.1L585.3,12.4L585.1,12.4L583.4,12.4L583.2,12.4L583.4,21.2L584.3,32.1L583.4,35.6L581.8,45.6L580.9,32.1L580.1,22.9L579.2,32.1L580,51.8L580.1,52.6zM554.8,51.8L554.9,57.4L555.1,51.8L555.1,32.1L556.6,20.6L557.7,12.4L556.6,12.4L554.9,12.4L554.6,12.4L554.9,32.1zM619.6,51.8L620.3,69.4L620.3,51.8L620.3,37.1zM596.6,12.4L596.8,14.3L598.5,13.3L600.2,21.3L601.9,18L602.3,12.4L601.9,12.4L600.2,12.4L598.5,12.4L596.8,12.4z"/>
<path fill="#00ffff" d="M425.5,209.5L425.9,209.5L427.6,209.5L429.3,209.5L430.9,209.5L430.9,206.7L431,209.5L432.6,209.5L433.8,209.5L432.6,196.7L431.5,189.8L430.9,180.8L430.4,170.1L429.3,155.6L428.7,170.1L428.5,189.8L427.6,209L425.9,202.8zM456.9,209.5L457.8,209.5L458,209.5L459.4,192.3L460.7,209.5L461.1,209.5L462.8,209.5L463.8,209.5L463.3,189.8L462.8,174.9L461.7,170.1L461.1,168.8L459.8,170.1L459.4,170.3L458.1,189.8L457.8,194zM479.3,209.5L479.5,209.5L481.2,209.5L481.8,209.5L481.2,208.5L479.5,208.7zM486.1,189.8L486.2,192.8L486.5,189.8L487.9,180.3L488.9,170.1L489.6,153.5L491,170.1L491.3,173.3L492.9,174.5L493.1,170.1L492.9,165.1L491.4,150.4L491.4,130.7L491.3,127.8L491.1,130.7L489.6,148.6L487.9,137.4L487.3,130.7L486.7,111L486.3,91.2L486.2,90.1L486.1,91.2L484.6,97.9L483.1,111L483.9,130.7L483.9,150.4L484.6,160.2L486.2,169L486.4,170.1L486.2,177.8zM486.2,152.2L485.9,150.4L486.2,145.1L487,150.4zM522.6,209.5L523.1,209.5L523.4,209.5L524,189.8L523.1,183.2L522.7,189.8zM526.4,209.5L526.5,209.5L528.1,209.5L529.7,209.5L529.8,208.4L529.9,209.5L531.5,209.5L532.7,209.5L532,189.8L531.5,184.9L529.8,175L529.3,170.1L528.1,159.6L526.7,170.1L527,189.8L526.5,206.7zM537.9,209.5L538.2,209.5L539.9,209.5L540.5,209.5L539.9,199.7L538.2,201.1zM544.9,209.5L546.6,209.5L546.8,209.5L546.6,207.9L545.1,189.8L546.3,170.1L544.9,157.3L544,170.1L543.5,189.8zM549.6,209.5L549.9,209.5L550,209.5L549.9,208.1zM553,209.5L553.3,209.5L554.9,209.5L555,209.5L555.5,189.8L556.6,184.1L557.3,189.8L558.3,193.8L559,209.5L560,209.5L561.6,209.5L562.6,209.5L562.5,189.8L561.8,170.1L562.9,150.4L563,130.7L561.6,125.3L560.6,111L560,91.2L560,90.2L558.3,81.5L557.1,71.5L558.3,64.1L560,62.6L560.9,51.8L560.9,32.1L561.6,14.5L561.7,12.4L561.6,12.4L560,12.4L558.3,12.4L557.7,12.4L556.6,20.6L555.1,32.1L555.1,51.8L554.9,57.4L554.8,51.8L554.9,32.1L554.6,12.4L553.3,12.4L552.4,12.4L553.3,27.9L553.4,32.1L553.3,36.4L551.6,45.3L549.9,46L548.2,34.5L547.8,51.8L548.2,57.6L549.9,57.6L551.6,65.4L551.8,71.5L551.6,81.2L551.3,91.2L551.6,94.7L552.5,111L553.1,130.7L553.3,136.8L554.4,150.4L553.3,167.1L553.1,170.1L552.5,189.8zM558.3,142.2L557.9,130.7L556.6,114.3L554.9,118.1L554.2,111L554.9,103.1L556.6,108.1L558.3,110.1L558.4,111L559.4,130.7zM553.3,74.9L553.2,71.5L553.3,70.5L553.5,71.5zM566.3,209.5L566.7,209.5L568.4,209.5L569,209.5L568.4,189.8L570,184.7L571.7,180.9L572.6,170.1L573.4,159.3L574.6,150.4L575.1,147.9L576.7,135.8L577.2,130.7L577.8,111L577.5,91.2L576.7,74.9L576.6,71.5L576.5,51.8L575.1,45.5L573.6,51.8L573.4,54L571.7,60.1L571.4,71.5L571.7,73.9L573.4,85.3L574.2,91.2L574,111L573.4,117.6L572.7,111L571.7,103.8L570,102.9L568.4,93.6L566.7,103L566.1,111L565,124.4L563.6,130.7L565,141.9L565.8,150.4L566.7,155.9L567.6,170.1L568.4,189.8L566.7,203.7zM570,167L568.5,150.4L570,138.8L571.7,132L572.5,150.4L571.7,160.8zM577.9,209.5L578.4,209.5L578.6,209.5L578.4,202.2zM583,209.5L583.4,209.5L583.9,209.5L584,189.8L583.7,170.1L583.4,167.4L582.1,150.4L583.4,140.2L584.5,150.4L585.1,158L586.3,150.4L586.8,149.1L588.5,142L590.1,146.4L590.5,150.4L591.8,167.9L592.1,170.1L591.9,189.8L592,209.5L593.2,209.5L593.5,196.4L594.1,209.5L595.2,209.5L595.7,209.5L595.5,189.8L596.1,170.1L595.2,153.8L593.5,158.7L591.8,150.6L591.8,150.4L590.1,131.1L590,130.7L590.1,129.3L590.7,111L591.1,91.2L590.8,71.5L590.1,62.5L588.5,69.9L587.8,51.8L587.7,32.1L586.8,16.5L586.6,12.4L585.3,12.4L585.2,32.1L585.2,51.8L585.5,71.5L585.1,76L583.7,71.5L583.4,67.5L583.1,71.5L581.8,74.7L581,71.5L580.1,52.6L580,51.8L579.2,32.1L580.1,22.9L580.9,32.1L581.8,45.6L583.4,35.6L584.3,32.1L583.4,21.2L583.2,12.4L581.8,12.4L580.1,12.4L579.2,12.4L578.4,20.4L577.7,32.1L576.9,51.8L578.4,60.2L579.2,71.5L580.1,79.2L581.8,87.5L582.7,91.2L583.4,102L584.8,91.2L585.1,90.5L586.8,71.5L586.8,71.3L587.1,71.5L587.4,91.2L588.5,106.4L588.8,111L588.5,115L587.9,130.7L586.8,138.7L585.1,141.5L584,130.7L583.4,117L582.5,130.7L581.8,136.5L580.7,150.4L580.8,170.1L581.8,178.7L582.8,189.8zM586.4,209.5L586.8,209.5L587.8,209.5L586.8,202.6zM599.7,209.5L600.2,209.5L601.9,209.5L602.5,209.5L603.5,196.6L604.6,189.8L605.2,186.2L605.7,189.8L605.9,209.5L606.9,209.5L607.1,209.5L607.1,189.8L606.9,170.8L605.2,176L603.5,185.1L602.8,189.8L601.9,202.2L600.2,203.1zM618.1,209.5L618.6,209.5L620.3,209.5L620.3,190.3L618.6,195.1zM504.5,170.1L504.7,178.7L506.4,171.7L506.4,170.1L506.4,150.4L508,139.4L508.9,130.7L509.7,125L510.9,111L510.4,91.2L510.1,71.5L509.7,67.8L508,68.6L506.4,65.4L506.2,71.5L506.4,80.8L506.7,91.2L506.4,100.6L504.7,103.7L504.4,111L504.7,114.7L506,130.7L506.3,150.4L504.7,166.2zM515.2,170.1L516.4,174.4L516.6,170.1L516.4,150.4L516.4,150.3L516.4,150.4zM615.3,170.1L615.3,170.2L616.9,182.5L618.2,170.1L618.6,152.6L620.3,155.9L620.3,150.4L620.3,144.3L618.6,149.9L616.9,150.3L615.3,148.8L615.1,150.4zM432.5,150.4L432.6,150.8L432.6,150.4L432.6,149.4zM444.3,150.4L444.3,153.7L446,153.9L446.2,150.4L446,149.3L444.3,148.9zM526.3,150.4L526.5,154.6L526.6,150.4L527.9,130.7L528.1,116L528.3,111L528.1,109.5L526.5,106.7L525.3,111L525.2,130.7zM526.5,132.6L526.3,130.7L526.5,127.2L526.6,130.7zM496.3,130.7L496.3,131.7L496.3,130.7L496.3,128.8zM537.5,130.7L538.2,140.9L539.9,140.2L541.2,130.7L541.5,111L540.5,91.2L539.9,85.4L538.8,91.2L538.2,99.3L537.1,111zM447.2,111L447.7,115.7L448.4,111L447.7,106.7zM620.1,111L620.3,118.9L620.3,111L620.3,103.3zM494.2,91.2L494.6,97.8L495.2,91.2L495.6,71.5L494.6,66.4L494.3,71.5zM481.1,71.5L481.2,72.4L481.4,71.5L482.7,51.8L482.9,32.1L481.6,12.4L481.2,12.4L480.8,12.4L480.3,32.1L479.6,51.8zM613,71.5L613.6,90.8L614.7,71.5L615.3,63.6L616.9,56.4L618.6,55.9L619.4,71.5L620.3,86.7L620.3,71.5L620.3,69.4L619.6,51.8L620.3,37.1L620.3,32.1L620.3,12.4L619.4,12.4L618.6,30.5L617.5,32.1L616.9,33.9L615.3,45.6L613.6,43.5L611.9,45.8L611.7,51.8L611.9,54.9zM529.5,51.8L529.8,55.5L530.1,51.8L529.8,36.6L529.7,32.1L529.8,27.1L530.3,12.4L529.8,12.4L528.1,12.4L527.7,12.4L527.3,32.1L528.1,43.9zM592.4,51.8L593.5,61.5L594.4,51.8L594.7,32.1L595.2,24.2L596.8,31.2L598.5,27.9L599,32.1L600.2,39.6L601.9,34.9L602.2,32.1L603.5,14.9L604.6,12.4L603.5,12.4L602.3,12.4L601.9,18L600.2,21.3L598.5,13.3L596.8,14.3L596.6,12.4L595.2,12.4L593.5,12.4L591.8,12.4L590.4,12.4L591.8,30.7L591.9,32.1zM500.8,32.1L501.3,33.3L501.4,32.1L501.9,12.4L501.3,12.4L499.6,12.4L498.4,12.4L499.6,29.8zM516.3,32.1L516.4,35.5L516.7,32.1L518.1,22.5L519.8,18.1L521.4,23.6L523.1,19.9L523.5,12.4L523.1,12.4L521.4,12.4L519.8,12.4L518.1,12.4L516.4,12.4L515.8,12.4zM571.6,32.1L571.7,42.9L571.9,32.1L571.7,25.8zM609.8,32.1L610.2,33.9L610.6,32.1L610.7,12.4L610.2,12.4L608.6,12.4L606.9,12.4L605.4,12.4L606.9,24.2L608.6,24.9z"/>
<path fill="#00ff80" d="M385.7,209.5L387.4,209.5L389.1,209.5L390.7,209.5L392.4,209.5L394.1,209.5L395.8,209.5L397.4,209.5L399.1,209.5L400.8,209.5L402.5,209.5L404.1,209.5L405.8,209.5L407.5,209.5L409.2,209.5L410.8,209.5L412.5,209.5L414.2,209.5L415.9,209.5L417.5,209.5L419.2,209.5L420.9,209.5L422.6,209.5L424.2,209.5L425.5,209.5L425.9,202.8L427.6,209L428.5,189.8L428.7,170.1L429.3,155.6L430.4,170.1L430.9,180.8L431.5,189.8L432.6,196.7L433.8,209.5L434.3,209.5L436,209.5L437.6,209.5L439.3,209.5L440.4,209.5L439.3,201.4L437.6,196.6L436,195.6L435.2,189.8L434.3,170.7L434.3,170.1L434.3,168.1L434.5,150.4L434.6,130.7L436,126.9L437.6,114.3L439.3,123.9L439.9,130.7L440,150.4L441,153.6L442.4,170.1L441.4,189.8L441.8,209.5L442.7,209.5L443.4,209.5L444.3,204.1L445,209.5L446,209.5L447.4,209.5L447.7,202.6L447.9,209.5L449.4,209.5L451.1,209.5L452.7,209.5L452.7,207.4L454.4,198.5L455.7,189.8L455.3,170.1L454.4,157.8L453.5,150.4L453.6,130.7L453.3,111L453.5,91.2L453.2,71.5L454.4,66.2L456.1,60.3L457.3,71.5L457.8,83.8L458.3,71.5L458.1,51.8L458,32.1L457.8,28L456.1,19.9L454.4,16.6L452.7,23.1L452,32.1L452.2,51.8L451.1,64.4L449.6,51.8L449.4,50.6L447.7,50L446.3,32.1L446,27.8L444.4,12.4L444.3,12.4L443.1,32.1L442.7,51.6L442.7,51.8L442.1,71.5L441,80.1L440.6,91.2L439.3,101.2L438.2,91.2L437.8,71.5L439.3,60.7L439.7,51.8L440.9,32.1L439.6,12.4L439.3,12.4L437.6,12.4L436,12.4L434.3,12.4L432.6,12.4L431.5,12.4L432,32.1L430.9,51.8L429.3,44.1L427.7,32.1L427.6,31L427.5,32.1L427.1,51.8L426.5,71.5L425.9,91.2L424.7,71.5L425.2,51.8L424.2,34.1L423,32.1L422.6,31.7L422.5,32.1L420.9,36.1L419.2,50.1L417.5,41.7L415.9,36.7L415.5,32.1L414.5,12.4L414.2,12.4L412.5,12.4L410.8,12.4L409.2,12.4L407.5,12.4L405.8,12.4L404.1,12.4L402.5,12.4L400.8,12.4L399.1,12.4L397.4,12.4L395.8,12.4L394.1,12.4L392.4,12.4L390.7,12.4L389.1,12.4L387.4,12.4L385.7,12.4L385.7,32.1L385.7,51.8L385.7,71.5L385.7,91.2L385.7,111L385.7,130.7L385.7,150.4L385.7,170.1L385.7,189.8zM417.5,113.5L417.4,111L417.2,91.2L417.5,88.7L417.9,91.2L419.2,103.5L420.9,102.3L421.7,111L420.9,118.8L419.2,117.5zM420.9,179L420.1,170.1L420.9,158.8L422.3,150.4L422.6,142.2L424.2,143.1L425.9,138.3L426.5,150.4L425.9,169.2L424.2,165.8L423.3,170.1L422.6,172.2zM432.6,150.8L432.5,150.4L432.6,149.4L432.6,150.4zM434.3,128L433.3,111L434.3,101.3L434.7,111zM444.3,153.7L444.3,150.4L444.3,148.9L446,149.3L446.2,150.4L446,153.9zM447.7,115.7L447.2,110.9L447.7,106.7L448.4,111zM449.4,182L448.4,170.1L448.6,150.4L449.3,130.7L449.4,129.5L451.1,126.6L451.6,130.7L452.4,150.4L452,170.1L451.1,181.4zM425.9,119.5L425.3,111L425.9,91.3L426.3,110.9zM430.9,209.5L431,209.5L430.9,206.7zM455.8,209.5L456.1,209.5L456.9,209.5L457.8,194L458.1,189.8L459.4,170.3L459.8,170.1L461.1,168.8L461.7,170.1L462.8,174.9L463.3,189.8L463.8,209.5L464.5,209.5L465.6,209.5L466.1,189.8L466,170.1L466.1,150.5L466.1,150.4L464.5,158.3L462.9,150.4L462.8,149.9L461.1,143.2L460,150.4L459.4,153.6L457.8,164.1L457.2,170.1L456.4,189.8L456.1,201.1zM466.9,209.5L467.8,209.5L468.4,209.5L468.2,189.8L467.8,184.9L466.2,189.8zM473.7,189.8L474.5,194.2L476,209.5L476.2,209.5L477.9,209.5L479.3,209.5L479.5,208.7L481.2,208.5L481.8,209.5L482.9,209.5L484.6,209.5L486.2,209.5L487.1,209.5L487.9,200.8L489.6,203.8L490,209.5L491.3,209.5L492.9,209.5L494.3,209.5L494.6,196.2L496.3,195.7L497.6,209.5L498,209.5L498.7,209.5L499.6,202.7L500.5,209.5L501.3,209.5L502.2,209.5L501.3,200.1L500.7,189.8L499.6,174.5L498,173.5L496.3,172.1L496,170.1L496.3,169L497.6,150.4L498,141.2L499.6,150.4L499.6,151.8L499.8,150.4L500.7,130.7L501.3,112.6L503,114.1L504.3,130.7L503,149.3L502.6,150.4L502.4,170.1L502.3,189.8L503,198.6L504.1,209.5L504.7,209.5L506.4,209.5L507.1,209.5L508,194.5L508.4,189.8L508.3,170.1L508.6,150.4L509.7,138.9L511.2,130.7L511.4,128.6L511.7,130.7L513.1,142L513.8,150.4L513.7,170.1L514.7,184.7L515.3,189.8L516.4,199.7L517.9,209.5L518.1,209.5L518.4,209.5L519,189.8L518.1,170.1L519.6,150.4L518.1,143.8L516.6,130.7L517.2,111L518.1,102.5L519.8,105.8L521.4,102.9L522,91.2L522.6,71.5L523.1,63.9L524.2,51.8L524.8,45.1L525.4,51.8L526.5,68.5L526.6,71.5L527.6,91.2L526.5,98.1L525,91.2L524.8,84.9L524.3,91.2L523.8,111L523.4,130.7L523.5,150.4L523.1,167.6L523,170.1L521.8,189.8L521.4,205.2L521.1,209.5L521.4,209.5L522.6,209.5L522.7,189.8L523.1,183.2L524,189.8L523.4,209.5L524.1,209.5L524.8,197.9L525.5,209.5L526.4,209.5L526.5,206.7L527,189.8L526.7,170.1L528.1,159.6L529.3,170.1L529.8,175L531.5,184.9L532,189.8L532.7,209.5L533.2,209.5L533.6,209.5L533.7,189.8L534.8,176.1L536.1,170.1L534.8,157.3L533.2,157.9L531.5,168.7L530.1,150.4L529.8,130.7L530.3,111L530.5,91.2L531.5,78.4L532,91.2L533.2,103.3L533.7,111L534.8,127.2L535.3,130.7L536.5,143.2L536.9,150.4L538.2,169.1L539.9,152.2L541.5,164.4L542.1,170.1L541.5,179.5L539.9,186.5L538.2,171.6L537.8,189.8L537.3,209.5L537.9,209.5L538.2,201.1L539.9,199.7L540.5,209.5L541.2,209.5L541.5,197.8L543.2,199.6L544,209.5L544.9,209.5L543.5,189.8L544,170.1L544.9,157.3L546.3,170.1L545.1,189.8L546.6,207.9L546.8,209.5L548.2,209.5L549.6,209.5L549.9,208.1L550,209.5L551,209.5L551.6,198.5L552.2,209.5L553,209.5L552.5,189.8L553.1,170.1L553.3,167.1L554.4,150.4L553.3,136.8L553.1,130.7L552.5,111L551.6,94.7L551.3,91.2L551.6,81.2L551.8,71.5L551.6,65.4L549.9,57.6L548.2,57.6L547.8,51.8L548.2,34.5L549.9,46L551.6,45.3L553.3,36.4L553.4,32.1L553.3,27.9L552.4,12.4L551.6,12.4L549.9,12.4L549.9,12.8L548.2,13.3L547,32.1L546.8,51.8L548.1,71.5L548.2,72.9L549.8,91.2L549.9,93.2L551.1,111L551.6,115.8L552.2,130.7L552.6,150.4L551.6,166.7L551.1,170.1L550.4,189.8L549.9,193.2L548.2,190.2L547.8,189.8L548.2,189.2L549.1,170.1L549.9,153.8L550.1,150.4L549.9,146.1L549.4,130.7L548.2,116.3L546.6,130.3L546.4,130.7L544.9,133.7L544.5,130.7L543.2,114.1L543.1,111L542.2,91.2L541.6,71.5L541.5,70.8L539.9,59L538.2,70.2L538.2,71.5L536.5,81.9L534.8,76.6L533.2,79L531.9,71.5L532.1,51.8L532.3,32.1L533,12.4L531.5,12.4L530.3,12.4L529.8,27.1L529.7,32.1L529.8,36.6L530.1,51.8L529.8,55.5L529.5,51.8L528.1,43.9L527.3,32.1L527.7,12.4L526.8,12.4L526.5,22.6L525.3,12.4L524.8,12.4L523.5,12.4L523.1,19.9L521.4,23.6L519.8,18.1L518.1,22.5L516.7,32.1L516.4,35.5L516.3,32.1L515.8,12.4L514.7,12.4L514.5,12.4L514.7,23.6L515,32.1L514.8,51.8L514.7,53L513.2,71.5L513.2,91.2L513.1,92L513,91.2L512.5,71.5L511.4,70.5L509.7,53.6L509.3,51.8L508,44.4L506.8,32.1L506.5,12.4L506.4,12.4L506.2,12.4L505.7,32.1L504.7,42.8L503.5,51.8L503,71.5L502.3,51.8L503,35L503.1,32.1L503,12.4L501.9,12.4L501.4,32.1L501.3,33.3L500.8,32.1L499.6,29.8L498.4,12.4L498,12.4L497,12.4L496.3,22.6L494.6,29.3L493.3,32.1L492.9,34.9L492.8,32.1L491.3,22.8L489.8,12.4L489.6,12.4L487.9,12.4L486.3,12.4L487.9,29.4L488.2,32.1L488.6,51.8L489.6,65.3L490.5,71.5L490.4,91.2L489.9,111L489.6,116L487.9,117.4L487.7,111L487.6,91.2L487.9,73.5L488.1,71.5L487.9,69.9L486.2,59.8L484.8,71.5L484.6,73.3L484.4,71.5L484.2,51.8L484.6,36.9L485.2,32.1L485,12.4L484.6,12.4L482.9,12.4L481.6,12.4L482.9,32.1L482.7,51.8L481.4,71.5L481.2,72.4L481.1,71.5L479.6,51.8L480.3,32.1L480.8,12.4L479.5,12.4L479.4,12.4L478.8,32.1L478.3,51.8L478.8,71.5L479.5,83.7L480.4,91.2L481.2,107.6L481.3,111L481.2,115.4L480.5,130.7L480,150.4L479.9,170.1L479.5,179.4L477.9,185.3L476.6,170.1L477.4,150.4L477.9,135L478.3,130.7L478.8,111L477.9,98.7L476.2,98.2L474.9,111L474.5,115.5L473.2,130.7L473.4,150.4L474.2,170.1zM486.2,192.8L486.1,189.8L486.2,177.8L486.4,170.1L486.2,169L484.6,160.2L483.9,150.4L483.9,130.7L483.1,111L484.6,97.9L486.1,91.2L486.2,90.1L486.3,91.2L486.7,111L487.3,130.7L487.9,137.4L489.6,148.6L491.1,130.7L491.3,127.8L491.4,130.7L491.4,150.4L492.9,165.1L493.1,170.1L492.9,174.5L491.3,173.3L491,170.1L489.6,153.5L488.9,170.1L487.9,180.3L486.5,189.8zM494.6,153L494.6,150.4L493.3,130.7L492.9,111.6L492.9,111L492.9,109L493,111L494.6,118.9L495.2,130.7L494.7,150.4zM496.3,131.7L496.3,130.7L496.3,128.8L496.3,130.7zM498,73L497.9,71.5L498,69L499.6,70.6L499.8,71.5L499.6,73.5zM504.7,178.7L504.5,170.1L504.7,166.2L506.3,150.4L506,130.7L504.7,114.7L504.4,111L504.7,103.7L506.4,100.6L506.7,91.2L506.4,80.8L506.2,71.5L506.4,65.4L508,68.6L509.7,67.8L510.1,71.5L510.4,91.2L510.9,111L509.7,125L508.9,130.7L508,139.4L506.4,150.4L506.4,170.1L506.4,171.7zM516.4,174.4L515.2,170.1L516.4,150.4L516.4,150.3L516.4,150.4L516.6,170.1zM526.5,154.6L526.3,150.4L525.2,130.7L525.3,111L526.5,106.7L528.1,109.5L528.3,111L528.1,116L527.9,130.7L526.6,150.4zM538.2,140.9L537.5,130.7L537.1,111L538.2,99.3L538.8,91.2L539.9,85.4L540.5,91.2L541.5,111L541.2,130.7L539.9,140.2zM494.6,97.8L494.2,91.2L494.3,71.5L494.6,66.4L495.6,71.5L495.2,91.2zM514.7,209.5L514.8,209.5L514.7,208.7zM555,209.5L556.6,209.5L558.3,209.5L559,209.5L558.3,193.8L557.3,189.8L556.6,184.1L555.5,189.8zM562.6,209.5L563.3,209.5L564.9,209.5L565,209L565,209.5L566.3,209.5L566.7,203.7L568.4,189.8L567.6,170.1L566.7,155.9L565.8,150.4L565,141.9L563.6,130.7L565,124.4L566.1,111L566.7,103L568.4,93.6L570,102.9L571.7,103.8L572.7,111L573.4,117.6L574,111L574.2,91.2L573.4,85.3L571.7,73.9L571.4,71.5L571.7,60.1L573.4,54L573.6,51.8L575.1,45.5L576.5,51.8L576.6,71.5L576.7,74.9L577.5,91.2L577.8,111L577.2,130.7L576.7,135.8L575.1,147.9L574.6,150.4L573.4,159.3L572.6,170.1L571.7,180.9L570,184.7L568.4,189.8L569,209.5L569.8,209.5L570,203.3L571.7,203.2L572.3,209.5L573.4,209.5L575.1,209.5L576.7,209.5L577.9,209.5L578.4,202.2L578.6,209.5L579.3,209.5L580.1,190.7L581.8,194.4L582.2,209.5L583,209.5L582.8,189.8L581.8,178.7L580.8,170.1L580.7,150.4L581.8,136.5L582.5,130.7L583.4,117L584,130.7L585.1,141.5L586.8,138.7L587.9,130.7L588.5,115L588.8,111L588.5,106.4L587.4,91.2L587.1,71.5L586.8,71.3L586.8,71.5L585.1,90.5L584.8,91.2L583.4,102L582.7,91.2L581.8,87.5L580.1,79.2L579.2,71.5L578.4,60.2L576.9,51.8L577.7,32.1L578.4,20.4L579.2,12.4L578.4,12.4L577.8,12.4L576.7,29L575.4,32.1L575.1,32.7L574.8,32.1L573.4,24.6L572.8,12.4L571.7,12.4L570,12.4L568.5,12.4L569.6,32.1L570,41.6L570.3,51.8L570,56.5L568.9,51.8L568.4,49L566.8,32.1L567.2,12.4L566.7,12.4L566.5,12.4L566.6,32.1L566.3,51.8L566.7,66.2L566.9,71.5L566.7,76.2L565.9,91.2L565,105.6L564.3,111L563.3,114.9L562.3,111L561.7,91.2L561.6,73L561.6,71.5L562.3,51.8L563.2,32.1L563.3,13.8L563.4,12.4L563.3,12.4L561.7,12.4L561.6,14.5L560.9,32.1L560.9,51.8L560,62.6L558.3,64.1L557.1,71.5L558.3,81.5L560,90.2L560,91.2L560.6,111L561.6,125.3L563,130.7L562.9,150.4L561.8,170.1L562.5,189.8zM571.7,42.9L571.6,32.1L571.7,25.8L571.9,32.1zM576.7,200L576.1,189.8L576.3,170.1L576.7,163.6L577.6,170.1L577.2,189.8zM580.1,135.7L579.6,130.7L579.6,111L579.9,91.2L580.1,90.5L580.2,91.2L580.9,111L580.4,130.7zM585.1,125.8L584.5,111L585.1,104.8L586.8,109.7L586.9,111L586.8,114.7zM593.2,209.5L593.5,209.5L594.1,209.5L593.5,196.4zM595.7,209.5L596.8,209.5L598,209.5L597.7,189.8L597.5,170.1L598.2,150.4L596.8,135.8L596.5,130.7L596.8,120.1L597.3,111L596.8,101.2L595.2,92L595.1,91.2L595,71.5L595.2,70.2L596.4,51.8L596.8,48L598,51.8L598.5,54.8L599.6,51.8L600.2,51.1L601.9,49.6L602.8,51.8L603.5,57.1L603.8,51.8L605.2,41.9L606.6,51.8L606.9,56.2L608.6,55L609.7,71.5L609.9,91.2L610.2,99.9L611.9,102.4L613.6,102.2L615.3,96.2L615.7,91.2L616.9,78.5L618.6,76.7L619.4,91.2L619,111L619.2,130.7L618.6,136.2L616.9,139.6L615.3,134.8L613.7,150.4L613.6,170.1L615.3,185.2L615.9,189.8L616.9,209.5L618.1,209.5L618.6,195.1L620.3,190.3L620.3,189.8L620.3,170.1L620.3,155.9L618.6,152.6L618.2,170.1L616.9,182.5L615.3,170.2L615.3,170.1L615.1,150.4L615.3,148.8L616.9,150.3L618.6,149.9L620.3,144.3L620.3,130.7L620.3,118.9L620.1,111L620.3,103.3L620.3,91.2L620.3,86.7L619.4,71.5L618.6,55.9L616.9,56.4L615.3,63.6L614.7,71.5L613.6,90.8L613,71.5L611.9,54.9L611.7,51.8L611.9,45.8L613.6,43.5L615.3,45.6L616.9,33.9L617.5,32.1L618.6,30.5L619.4,12.4L618.6,12.4L616.9,12.4L615.4,12.4L615.3,13.8L615.2,12.4L613.6,12.4L611.9,12.4L610.7,12.4L610.6,32.1L610.2,33.9L609.8,32.1L608.6,24.9L606.9,24.2L605.4,12.4L605.2,12.4L604.6,12.4L603.5,14.9L602.2,32.1L601.9,34.9L600.2,39.6L599,32.1L598.5,27.9L596.8,31.2L595.2,24.2L594.7,32.1L594.4,51.8L593.5,61.5L592.4,51.8L591.9,32.1L591.8,30.7L590.4,12.4L590.1,12.4L588.5,12.4L586.8,12.4L586.6,12.4L586.8,16.5L587.7,32.1L587.8,51.8L588.5,69.9L590.1,62.5L590.8,71.5L591.1,91.2L590.7,111L590.1,129.3L590,130.7L590.1,131.1L591.8,150.4L591.8,150.6L593.5,158.7L595.2,153.8L596.1,170.1L595.5,189.8zM598.5,209.5L599.7,209.5L600.2,203.1L601.9,202.2L602.8,189.8L603.5,185.1L605.2,176L606.9,170.8L607.1,189.8L607.1,209.5L608.2,209.5L608.6,197.3L609,189.8L610,170.1L610.2,165.6L610.5,150.4L610.2,145.6L608.6,143.9L607.5,130.7L606.9,130.1L606.8,130.7L605.7,150.4L605.2,157.5L604.4,170.1L603.5,174.8L601.9,183.6L600.2,184.3L599.7,189.8zM457.7,111L457.8,115.4L458.4,111L457.8,103.6zM462.3,91.2L462.8,94.6L464.5,101.2L466.1,101.2L467,91.2L467.8,79.1L468.8,71.5L468.5,51.8L469.5,47.9L471.2,37.5L471.9,32.1L471.2,26.5L469.5,24.4L468.2,32.1L467.8,44.1L467.5,51.8L466.1,60.8L464.5,61.9L463,71.5L462.8,77zM470.4,91.2L471.2,101.4L472,91.2L471.2,74.8zM601.8,91.2L601.9,91.8L603.5,93.2L603.7,91.2L603.5,87.3L601.9,91zM464.1,32.1L464.5,37.5L465.2,32.1L466.1,26.1L467.8,24.6L468.2,12.4L467.8,12.4L466.1,12.4L464.5,12.4L462.8,12.4L462.2,12.4L462.8,23.3zM539.7,32.1L539.9,35.4L540.1,32.1L539.9,30.3zM543.2,12.4L543.2,18.6L543.9,12.4L543.2,12.4z"/>
<path fill="#00f000" d="M435.2,189.8L436,195.6L437.6,196.6L439.3,201.4L440.4,209.5L441,209.5L441.8,209.5L441.4,189.8L442.4,170.1L441,153.6L440,150.4L439.9,130.7L439.3,123.9L437.6,114.3L436,126.9L434.6,130.7L434.5,150.4L434.3,168.1L434.3,170.1L434.3,170.7zM443.4,209.5L444.3,209.5L445,209.5L444.3,204.1zM447.4,209.5L447.7,209.5L447.9,209.5L447.7,202.6zM452.7,209.5L454.4,209.5L455.8,209.5L456.1,201.1L456.4,189.8L457.2,170.1L457.8,164.1L459.4,153.6L460,150.4L461.1,143.2L462.8,149.9L462.9,150.4L464.5,158.3L466.1,150.4L466.1,150.5L466,170.1L466.1,189.8L465.6,209.5L466.1,209.5L466.9,209.5L466.2,189.8L467.8,184.9L468.2,189.8L468.4,209.5L469.5,209.5L470.2,209.5L470.7,189.8L469.5,181.3L468.5,170.1L467.8,155.9L467.7,150.4L467.8,145.4L468.5,130.7L469.5,121.6L471.1,130.7L471.2,131.3L471.5,150.4L472.4,170.1L471.4,189.8L472.3,209.5L472.8,209.5L474.5,209.5L476,209.5L474.5,194.2L473.7,189.8L474.2,170.1L473.4,150.4L473.2,130.7L474.5,115.5L474.9,111L476.2,98.2L477.9,98.7L478.8,111L478.3,130.7L477.9,135L477.4,150.4L476.6,170.1L477.9,185.3L479.5,179.4L479.9,170.1L480,150.4L480.5,130.7L481.2,115.4L481.3,111L481.2,107.6L480.4,91.2L479.5,83.7L478.8,71.5L478.3,51.8L478.8,32.1L479.4,12.4L478.3,12.4L477.9,21.1L476.7,32.1L476.7,51.8L476.2,70L475.6,51.8L475.7,32.1L474.5,18.4L474.2,12.4L472.8,12.4L471.2,12.4L469.5,12.4L468.2,12.4L467.8,24.6L466.1,26.1L465.2,32.1L464.5,37.5L464.1,32.1L462.8,23.3L462.2,12.4L461.1,12.4L460.3,12.4L461.1,21.9L461.4,32.1L461.1,47.8L459.4,36.5L459.3,32.1L458.9,12.4L457.8,12.4L456.1,12.4L454.4,12.4L452.7,12.4L451.1,12.4L449.4,12.4L447.8,12.4L447.7,13.7L447.6,12.4L446,12.4L444.4,12.4L446,27.8L446.3,32.1L447.7,50L449.4,50.6L449.6,51.8L451.1,64.4L452.2,51.8L452,32.1L452.7,23.1L454.4,16.6L456.1,19.9L457.8,28L458,32.1L458.1,51.8L458.3,71.5L457.8,83.8L457.3,71.5L456.1,60.3L454.4,66.2L453.2,71.5L453.5,91.2L453.3,111L453.6,130.7L453.5,150.4L454.4,157.8L455.3,170.1L455.7,189.8L454.4,198.5L452.7,207.4zM457.8,115.4L457.7,111L457.8,103.6L458.4,111zM462.8,94.6L462.3,91.2L462.8,77L463,71.5L464.5,61.9L466.1,60.8L467.5,51.8L467.8,44.1L468.2,32.1L469.5,24.4L471.2,26.5L471.9,32.1L471.2,37.5L469.5,47.9L468.5,51.8L468.8,71.5L467.8,79.1L467,91.2L466.1,101.2L464.5,101.2zM471.2,101.4L470.4,91.2L471.2,74.8L472,91.2zM454.4,114.7L454.3,111L454.4,105.6L455.4,111zM487.1,209.5L487.9,209.5L489.6,209.5L490,209.5L489.6,203.8L487.9,200.8zM494.3,209.5L494.6,209.5L496.3,209.5L497.6,209.5L496.3,195.7L494.6,196.2zM498.7,209.5L499.6,209.5L500.5,209.5L499.6,202.7zM500.7,189.8L501.3,200.1L502.2,209.5L503,209.5L504.1,209.5L503,198.6L502.3,189.8L502.4,170.1L502.6,150.4L503,149.3L504.3,130.7L503,114.1L501.3,112.6L500.7,130.7L499.8,150.4L499.6,151.8L499.6,150.4L498,141.2L497.6,150.4L496.3,169L496,170.1L496.3,172.1L498,173.5L499.6,174.5zM507.1,209.5L508,209.5L509.6,189.8L509.3,170.1L509.7,153.3L510.1,150.4L511.4,146L511.8,150.4L512.7,170.1L513.1,183.8L513.3,189.8L513.4,209.5L514.7,209.5L514.7,208.7L514.8,209.5L516.4,209.5L517.9,209.5L516.4,199.7L515.3,189.8L514.7,184.7L513.7,170.1L513.8,150.4L513.1,142L511.7,130.7L511.4,128.6L511.2,130.7L509.7,138.9L508.6,150.4L508.3,170.1L508.4,189.8L508,194.5zM518.4,209.5L519.8,209.5L521.1,209.5L521.4,205.2L521.8,189.8L523,170.1L523.1,167.6L523.5,150.4L523.4,130.7L523.8,111L524.3,91.2L524.8,84.9L525,91.2L526.5,98.1L527.6,91.2L526.6,71.5L526.5,68.5L525.4,51.8L524.8,45.1L524.2,51.8L523.1,63.9L522.6,71.5L522,91.2L521.4,102.9L519.8,105.8L518.1,102.5L517.2,111L516.6,130.7L518.1,143.8L519.6,150.4L518.1,170.1L519,189.8zM524.1,209.5L524.8,209.5L525.5,209.5L524.8,197.9zM533.6,209.5L534.2,209.5L534.8,193.3L536,189.8L536.5,187.7L536.6,189.8L536.8,209.5L537.3,209.5L537.8,189.8L538.2,171.6L539.9,186.5L541.5,179.5L542.1,170.1L541.5,164.4L539.9,152.2L538.2,169.1L536.9,150.4L536.5,143.2L535.3,130.7L534.8,127.2L533.7,111L533.2,103.3L532,91.2L531.5,78.4L530.5,91.2L530.3,111L529.8,130.7L530.1,150.4L531.5,168.7L533.2,157.9L534.8,157.3L536.1,170.1L534.8,176.1L533.7,189.8zM531.5,152.2L531.3,150.4L531.1,130.7L531.5,116L532.4,130.7L531.7,150.4zM541.2,209.5L541.5,209.5L543.2,209.5L544,209.5L543.2,199.6L541.5,197.8zM547.8,189.8L548.2,190.2L549.9,193.2L550.4,189.8L551.1,170.1L551.6,166.7L552.6,150.4L552.2,130.7L551.6,115.8L551.1,111L549.9,93.2L549.8,91.2L548.2,72.9L548.1,71.5L546.8,51.8L547,32.1L548.2,13.3L549.9,12.8L549.9,12.4L548.2,12.4L546.6,12.4L544.9,12.4L543.9,12.4L543.2,18.6L543.2,12.4L541.5,12.4L539.9,12.4L538.2,12.4L536.5,12.4L534.8,12.4L533.2,12.4L533,12.4L532.3,32.1L532.1,51.8L531.9,71.5L533.2,79L534.8,76.6L536.5,81.9L538.2,71.5L538.2,70.2L539.9,59L541.5,70.8L541.6,71.5L542.2,91.2L543.1,111L543.2,114.1L544.5,130.7L544.9,133.7L546.4,130.7L546.6,130.3L548.2,116.3L549.4,130.7L549.9,146.1L550.1,150.4L549.9,153.8L549.1,170.1L548.2,189.2zM539.9,35.4L539.7,32.1L539.9,30.3L540.1,32.1zM544.9,115.2L544.5,111L543.8,91.2L543.6,71.5L544.9,55.6L546.3,71.5L546.6,74.2L548.2,89.7L548.4,91.2L548.2,93.5L546.6,108.6L546.1,111zM551,209.5L551.6,209.5L552.2,209.5L551.6,198.5zM564.9,209.5L565,209.5L565,209zM569.8,209.5L570,209.5L571.7,209.5L572.3,209.5L571.7,203.2L570,203.3zM576.1,189.8L576.7,200L577.2,189.8L577.6,170.1L576.7,163.6L576.3,170.1zM579.3,209.5L580,209.5L580.1,208.1L580.4,209.5L581.8,209.5L582.2,209.5L581.8,194.4L580.1,190.7zM598,209.5L598.5,209.5L599.7,189.8L600.2,184.3L601.9,183.6L603.5,174.8L604.4,170.1L605.2,157.5L605.7,150.4L606.8,130.7L606.9,130.1L607.5,130.7L608.6,143.9L610.2,145.6L610.5,150.4L610.2,165.6L610,170.1L609,189.8L608.6,197.3L608.2,209.5L608.6,209.5L610.2,209.5L611.4,209.5L611.9,191.7L613.6,203L615.3,197.6L616.1,209.5L616.9,209.5L615.9,189.8L615.3,185.2L613.6,170.1L613.7,150.4L615.3,134.8L616.9,139.6L618.6,136.2L619.2,130.7L619,111L619.4,91.2L618.6,76.7L616.9,78.5L615.7,91.2L615.3,96.2L613.6,102.2L611.9,102.4L610.2,99.9L609.9,91.2L609.7,71.5L608.6,55L606.9,56.2L606.6,51.8L605.2,41.9L603.8,51.8L603.5,57.1L602.8,51.8L601.9,49.6L600.2,51.1L599.6,51.8L598.5,54.8L598,51.8L596.8,48L596.4,51.8L595.2,70.2L595,71.5L595.1,91.2L595.2,92L596.8,101.2L597.3,111L596.8,120.1L596.5,130.7L596.8,135.8L598.2,150.4L597.5,170.1L597.7,189.8zM603.5,151.6L603.1,150.4L601.9,142.9L601,130.7L601.9,126.4L603.5,128.1L603.7,130.7L603.6,150.4zM605.2,113.6L604.9,111L605.2,108.6L606.3,91.2L606.9,85.4L608.6,87.6L608.7,91.2L609.1,111L608.6,115.5L606.9,121zM611.9,144.2L611.5,130.7L611.9,125.1L612.3,130.7zM616.9,122.2L616.3,111L616.9,104L617.4,111zM601.9,91.8L601.8,91.2L601.9,91L603.5,87.3L603.7,91.2L603.5,93.2zM420.1,170.1L420.9,179L422.6,172.2L423.3,170.1L424.2,165.8L425.9,169.2L426.5,150.4L425.9,138.3L424.2,143.1L422.6,142.2L422.3,150.4L420.9,158.8zM448.4,170.1L449.4,182L451.1,181.4L452,170.1L452.4,150.4L451.6,130.7L451.1,126.6L449.4,129.5L449.3,130.7L448.6,150.4zM494.6,150.4L494.6,153L494.7,150.4L495.2,130.7L494.6,118.9L493,111L492.9,109L492.9,111L492.9,111.6L493.3,130.7zM579.6,130.7L580.1,135.7L580.4,130.7L580.9,111L580.2,91.2L580.1,90.5L579.9,91.2L579.6,111zM417.4,111L417.5,113.5L419.2,117.5L420.9,118.8L421.7,111L420.9,102.3L419.2,103.5L417.9,91.2L417.5,88.7L417.2,91.2zM425.3,111L425.9,119.5L426.3,111L425.9,91.3zM433.3,111L434.3,128L434.7,111L434.3,101.3zM487.7,111L487.9,117.4L489.6,116L489.9,111L490.4,91.2L490.5,71.5L489.6,65.3L488.6,51.8L488.2,32.1L487.9,29.4L486.3,12.4L486.2,12.4L485,12.4L485.2,32.1L484.6,36.9L484.2,51.8L484.4,71.5L484.6,73.3L484.8,71.5L486.2,59.8L487.9,69.9L488.1,71.5L487.9,73.5L487.6,91.2zM562.3,111L563.3,114.9L564.3,111L565,105.6L565.9,91.2L566.7,76.2L566.9,71.5L566.7,66.2L566.3,51.8L566.6,32.1L566.5,12.4L565,12.4L563.4,12.4L563.3,13.8L563.2,32.1L562.3,51.8L561.6,71.5L561.6,73L561.7,91.2zM563.3,90.2L562.9,71.5L563.3,55.3L563.7,51.8L565,44.7L565.3,51.8L565.4,71.5L565,77.9zM584.5,111L585.1,125.8L586.8,114.7L586.9,111L586.8,109.7L585.1,104.8zM438.2,91.2L439.3,101.2L440.6,91.2L441,80.1L442.1,71.5L442.7,51.8L442.7,51.6L443.1,32.1L444.3,12.4L442.7,12.4L441,12.4L439.6,12.4L440.9,32.1L439.7,51.8L439.3,60.7L437.8,71.5zM513,91.2L513.1,92L513.2,91.2L513.2,71.5L514.7,53L514.8,51.8L515,32.1L514.7,23.6L514.5,12.4L513.7,12.4L514,32.1L513.3,51.8L513.1,55.2L511.4,53.7L511.2,51.8L509.7,37.3L508.8,32.1L509.5,12.4L508,12.4L506.5,12.4L506.8,32.1L508,44.4L509.3,51.8L509.7,53.6L511.4,70.5L512.5,71.5zM424.7,71.5L425.9,91.2L426.5,71.5L427.1,51.8L427.5,32.1L427.6,31L427.7,32.1L429.3,44.1L430.9,51.8L432,32.1L431.5,12.4L430.9,12.4L429.3,12.4L427.6,12.4L425.9,12.4L424.2,12.4L422.6,12.4L420.9,12.4L419.2,12.4L417.5,12.4L415.9,12.4L414.5,12.4L415.5,32.1L415.9,36.7L417.5,41.7L419.2,50.1L420.9,36.1L422.5,32.1L422.6,31.7L423,32.1L424.2,34.1L425.2,51.8zM497.9,71.5L498,73L499.6,73.5L499.8,71.5L499.6,70.6L498,69zM503,71.5L503.5,51.8L504.7,42.8L505.7,32.1L506.2,12.4L504.7,12.4L503,12.4L503.1,32.1L503,35L502.3,51.8zM568.9,51.8L570,56.5L570.3,51.8L570,41.6L569.6,32.1L568.5,12.4L568.4,12.4L567.2,12.4L566.8,32.1L568.4,49zM492.8,32.1L492.9,34.9L493.3,32.1L494.6,29.3L496.3,22.6L497,12.4L496.3,12.4L494.9,12.4L494.6,14.4L493.8,12.4L492.9,12.4L491.3,12.4L489.8,12.4L491.3,22.8zM574.8,32.1L575.1,32.7L575.4,32.1L576.7,29L577.8,12.4L576.8,12.4L576.7,12.9L575.1,19L574.3,12.4L573.4,12.4L572.8,12.4L573.4,24.6zM525.3,12.4L526.5,22.6L526.8,12.4L526.5,12.4zM615.2,12.4L615.3,13.8L615.4,12.4L615.3,12.4z"/>
<path fill="#ffff00" d="M470.2,209.5L471.2,209.5L472.3,209.5L471.4,189.8L472.4,170.1L471.5,150.4L471.2,131.3L471.1,130.7L469.5,121.6L468.5,130.7L467.8,145.4L467.7,150.4L467.8,155.9L468.5,170.1L469.5,181.3L470.7,189.8zM508,209.5L509.2,209.5L509.7,203.3L510.4,209.5L511.4,209.5L513.1,209.5L513.4,209.5L513.3,189.8L513.1,183.8L512.7,170.1L511.8,150.4L511.4,146L510.1,150.4L509.7,153.3L509.3,170.1L509.6,189.8zM511.4,179.5L510.8,170.1L511.4,164.4L511.7,170.1zM534.2,209.5L534.8,209.5L534.8,208.4L535,209.5L536.5,209.5L536.8,209.5L536.6,189.8L536.5,187.7L536,189.8L534.8,193.3zM580,209.5L580.1,209.5L580.4,209.5L580.1,208.1zM611.4,209.5L611.9,209.5L613.6,209.5L615.1,209.5L615.3,208.7L615.3,209.5L616.1,209.5L615.3,197.6L613.6,203L611.9,191.7zM531.3,150.4L531.5,152.2L531.7,150.4L532.4,130.7L531.5,116L531.1,130.7zM603.1,150.4L603.5,151.6L603.6,150.4L603.7,130.7L603.5,128.1L601.9,126.4L601,130.7L601.9,142.9zM611.5,130.7L611.9,144.2L612.3,130.7L611.9,125.1zM454.3,111L454.4,114.7L455.4,111L454.4,105.6zM544.5,111L544.9,115.2L546.1,111L546.6,108.6L548.2,93.5L548.4,91.2L548.2,89.7L546.6,74.2L546.3,71.5L544.9,55.6L543.6,71.5L543.8,91.2zM604.9,111L605.2,113.6L606.9,121L608.6,115.5L609.1,111L608.7,91.2L608.6,87.6L606.9,85.4L606.3,91.2L605.2,108.6zM606.9,111.9L606.7,111L606.9,108.4L607.1,111zM616.3,111L616.9,122.2L617.4,111L616.9,104zM562.9,71.5L563.3,90.2L565,77.9L565.4,71.5L565.3,51.8L565,44.7L563.7,51.8L563.3,55.3zM475.6,51.8L476.2,70L476.7,51.8L476.7,32.1L477.9,21.1L478.3,12.4L477.9,12.4L476.2,12.4L474.5,12.4L474.2,12.4L474.5,18.4L475.7,32.1zM511.2,51.8L511.4,53.7L513.1,55.2L513.3,51.8L514,32.1L513.7,12.4L513.1,12.4L511.4,12.4L509.7,12.4L509.5,12.4L508.8,32.1L509.7,37.3zM459.3,32.1L459.4,36.5L461.1,47.8L461.4,32.1L461.1,21.9L460.3,12.4L459.4,12.4L458.9,12.4zM447.6,12.4L447.7,13.7L447.8,12.4L447.7,12.4zM493.8,12.4L494.6,14.4L494.9,12.4L494.6,12.4zM574.3,12.4L575.1,19L576.7,12.9L576.8,12.4L576.7,12.4L575.1,12.4z"/>
<path fill="#ff8000" d="M509.2,209.5L509.7,209.5L510.4,209.5L509.7,203.3zM534.8,209.5L535,209.5L534.8,208.4zM615.1,209.5L615.3,209.5L615.3,208.7zM510.8,170.1L511.4,179.5L511.7,170.1L511.4,164.4zM606.7,111L606.9,111.9L607.1,111L606.9,108.4z"/>
</g>
<rect x="385.7" y="12.4" width="234.6" height="197.1" fill="none" stroke="#000" stroke-width="1"/>
<path d="M402.5,209.5v4.2M436.0,209.5v4.2M469.5,209.5v4.2M503.0,209.5v4.2M536.5,209.5v4.2M570.0,209.5v4.2M603.5,209.5v4.2M385.7,209.5v2.3M419.2,209.5v2.3M452.7,209.5v2.3M486.2,209.5v2.3M519.8,209.5v2.3M553.3,209.5v2.3M586.8,209.5v2.3M620.3,209.5v2.3M385.7,209.5h-4.2M385.7,170.1h-4.2M385.7,130.7h-4.2M385.7,91.2h-4.2M385.7,51.8h-4.2M385.7,12.4h-4.2M385.7,189.8h-2.3M385.7,150.4h-2.3M385.7,111.0h-2.3M385.7,71.5h-2.3M385.7,32.1h-2.3" stroke="#000" stroke-width=".9" fill="none"/>
<g style="font-family:'Liberation Serif',serif;font-weight:bold;font-size:9.60px" text-anchor="middle">
<text transform="translate(402.5,223.6) scale(1.000,1)">20000</text>
<text transform="translate(436.0,223.6) scale(1.000,1)">40000</text>
<text transform="translate(469.5,223.6) scale(1.000,1)">60000</text>
<text transform="translate(503.0,223.6) scale(1.000,1)">80000</text>
<text transform="translate(536.5,223.6) scale(1.000,1)">100000</text>
<text transform="translate(570.0,223.6) scale(1.000,1)">120000</text>
<text transform="translate(603.5,223.6) scale(1.000,1)">140000</text>
</g>
<g style="font-family:'Liberation Serif',serif;font-weight:bold;font-size:9.60px" text-anchor="end">
<text transform="translate(378.1,212.6) scale(1.000,1)">0</text>
<text transform="translate(378.1,173.2) scale(1.000,1)">5</text>
<text transform="translate(378.1,133.8) scale(1.000,1)">10</text>
<text transform="translate(378.1,94.3) scale(1.000,1)">15</text>
<text transform="translate(378.1,54.9) scale(1.000,1)">20</text>
<text transform="translate(378.1,15.5) scale(1.000,1)">25</text>
</g>
<text transform="translate(503.0,237.7) scale(1.000,1)" text-anchor="middle" style="font-family:'Liberation Serif',serif;font-weight:bold;font-size:12.80px">Steps</text>
<text transform="translate(364.8,111.0) scale(1.000,1) rotate(-90)" text-anchor="middle" style="font-family:'Liberation Serif',serif;font-weight:bold;font-size:12.60px">Cutting angle(°)</text>
<rect x="637.9" y="12.00" width="23.2" height="14.11" fill="#000000"/>
<rect x="637.9" y="25.81" width="23.2" height="14.11" fill="#0000ff"/>
<rect x="637.9" y="39.62" width="23.2" height="14.11" fill="#0080ff"/>
<rect x="637.9" y="53.43" width="23.2" height="14.11" fill="#00ffff"/>
<rect x="637.9" y="67.24" width="23.2" height="14.11" fill="#00ff80"/>
<rect x="637.9" y="81.06" width="23.2" height="14.11" fill="#00f000"/>
<rect x="637.9" y="94.87" width="23.2" height="14.11" fill="#ffff00"/>
<rect x="637.9" y="108.68" width="23.2" height="14.11" fill="#ff8000"/>
<rect x="637.9" y="122.49" width="23.2" height="13.81" fill="#ff0000"/>
<g style="font-family:'Liberation Serif',serif;font-weight:bold;font-size:8.2px">
<text x="664.6" y="28.6">-44.50</text>
<text x="664.6" y="42.4">-32.88</text>
<text x="664.6" y="56.2">-21.25</text>
<text x="664.6" y="70.0">-9.625</text>
<text x="664.6" y="83.9">2.000</text>
<text x="664.6" y="97.7">13.63</text>
<text x="664.6" y="111.5">25.25</text>
<text x="664.6" y="125.3">36.88</text>
</g>
<text x="340.8" y="279.8" text-anchor="middle" style="font-family:'Liberation Serif',serif;font-size:17.4px">a) cutting force in x direction</text>
<path d="M159.7,539.3L265.6,486.6M265.6,486.6L272.1,328.6M138.6,531.9L245.8,481.3M245.8,481.3L251.1,326.2M118.4,524.8L226.7,476.3M226.7,476.3L230.8,323.9M99.1,518.1L208.4,471.4M208.4,471.4L211.3,321.6M80.5,511.6L190.6,466.7M190.6,466.7L192.5,319.5M62.7,505.4L173.5,462.2M173.5,462.2L174.4,317.4M45.7,499.4L157,457.8M157,457.8L157,315.4M194.8,530.7L62.6,487.3M62.6,487.3L56.8,328.7M217.2,519.2L86.2,478.7M86.2,478.7L82,324.7M238.1,508.6L108.4,470.5M108.4,470.5L105.6,321.1M257.5,498.6L129.3,462.9M129.3,462.9L127.7,317.6M37.2,492.6L149,452.3M149,452.3L275.9,485.5M36.3,472.9L148.9,435.2M148.9,435.2L276.8,466.3M35.3,452.9L148.9,417.8M148.9,417.8L277.7,446.8M34.4,432.6L148.8,400.2M148.8,400.2L278.6,427M33.5,412L148.7,382.4M148.7,382.4L279.5,406.9M32.5,391.1L148.7,364.4M148.7,364.4L280.4,386.5M31.5,369.8L148.6,346.1M148.6,346.1L281.4,365.8M30.5,348.2L148.6,327.5M148.6,327.5L282.3,344.8" stroke="#e6e6e6" stroke-width=".6" fill="none"/>
<path d="M149,455.7L148.5,314.4M275.7,489.3L283,329.9M37.4,496.5L149,455.7M275.7,489.3L149,455.7" stroke="#555" stroke-width=".7" fill="none"/>
<path d="M29.8,332.8L148.5,314.4M148.5,314.4L283,329.9" stroke="#444" stroke-width=".7" fill="none"/>
<g fill="currentColor" stroke="currentColor" stroke-width=".6" stroke-linejoin="round">
<path color="#b00" d="M157,332.5l-1.7-1.1-1.7,3.4-1.7,.7-.8-2.3-.8-2.2-5.1,7.6 .9-1.5 .8-1.4 1.7,3.8 1.7-5.5 1.7,.8zM165.6,337.2l-.9-7.9-5,6.3 .9,7zM171.4,338.9l-.6-7.2-.6,7.7-5,5.9 .6-6.3 .6,6.5zM185.9,338.4l-.8-4.5-1.9,4.3-5,4.2 1.8,.5 .9,4.8z"/>
<path color="#c00" d="M157.6,341.5l-.6-9-5,2.3 .6,8.7z"/>
<path color="#900" d="M164.7,329.3l-.8-7.9-.9,5.2-5,4.7 .9-2.7 .8,7z"/>
<path color="#d00" d="M166.1,347.3l-.5-10.1-5,5.4 .5,8.1zM171.9,346l-.5-7.1-5,6.6 .5,6.5zM186.8,342.8l-.9-4.4-5,9.3 .8,4.9zM192.9,341.1l-.6-6.8-1,8.5-5,10.8 .9-1.1 .5,5.8z"/>
<path color="#e00" d="M174.8,354.3l-.5-13-5,1.7 .5,11.8zM180.1,348.5l-.5-8.4-5,7.8 .6,6.4zM188.5,351.3l-1.7-8.5-5.1,9.8 1.8,2.8zM200.1,352.4l-.5-11.7-.7,8.7-5,9.3 .6-4.6 .6,7.7z"/>
<path color="#f00" d="M175.3,367.3l-.5-13-5,.5 .6,11.7zM190.3,351.1l-1.8,.2-5,4.1 1.8-.6zM198.9,349.4l-.8,8.6-.7,8.6-.9-2.4-.9-2.4-1.7-7.3-.5-6.7-.5-6.7-5.2,17.2 .6,5.9 .5,5.8 1.8,.6 1-1.4 .9-1.4 .7-4.5 .7-4.6zM207.1,374.4l-.5-6.7-1.9,4-.8-5.3-.9-5.3-1,7.2-1.1,7.2-.4-11.5-.4-11.6-5,9.4 .5,7.7 .5,7.7 1-4.5 1-4.5 .8,4.1 .9,4.1 1.9-3.9 .6,5.3zM214,374.4l-.8-3.9-.9-3.8-.8,6.4-4.9,6.3 .7-3.5 1-.9 .9-1zM222.7,372.8l-.8-6.6-1.1,5.6-1.1,5.5-4.9,4.3 1-2.3 1-2.2 .9,4.8zM232,377.6l-.5-7.5-2.1,4.3-5,10.3 2.1-2.9 .5,5.4z"/>
<path color="#f20" d="M207.6,380.9l-.5-6.5-4.8,3.4 .5,5.3zM214.5,381.2l-.5-6.8-4.8-.4 .6,6.7zM223.5,379.4l-.8-6.6-5,9.1 .9,4.8z"/>
<path color="#f60" d="M215,388l-.5-6.8-4.7-.5 .5,6.6zM224.2,388.1l-.7-8.7-4.9,7.3 .8,6.3z"/>
<path color="#fa0" d="M225,396.8l-.8-8.7-4.8,4.9 .8,6.2z"/>
<path color="#f40" d="M232.4,385.1l-.4-7.5-5,9.6 .5,5.4z"/>
<path color="#f90" d="M232.9,392.6l-.5-7.5-4.9,7.5 .5,5.4z"/>
<path color="#fc0" d="M233.6,400.8l-.7-8.2-4.9,5.4 .8,7.1z"/>
<path color="#df0" d="M234.4,408.9l-.8-8.1-4.8,4.3 .8,7z"/>
<path color="#be0" d="M236.2,414l-1.8-5.1-4.8,3.2 2,.7z"/>
<path color="#9e0" d="M237.1,416.8l-.9-2.8-4.6-1.2 .8,5zM244,415.9l-1,1.5-1.1,1.4-.9-1.9-.9-2-4.7,1.8 1-1.4 1.1-1.3 .9,2.9 .9,2.8zM249,415.8l-.8-6.1-1.2,5-4.8,6.4 1.1-3.1 .9,5.8z"/>
<path color="#8e0" d="M247,414.7l-1.1,4.9-1.9-3.7-4.7,3.8 1.8,4.5 1.1-3.1z"/>
<path color="#6e0" d="M251.8,423.9l-1-1-1-1-.8-6.1-4.8,8 .8,5.7 1.1-1.8 1-1.7z"/>
<path color="#4e0" d="M252.6,429.8l-.8-5.9-4.7,2.1 .8,5.9z"/>
<path color="#0e2" d="M253.4,435.6l-.8-5.8-4.7,2.1 .8,6z"/>
<path color="#0e7" d="M257.2,441.1l-1.8-6.5-2,1-4.7,2.3 2.1-.6 1.8,6.1z"/>
<path color="#0cf" d="M258.9,448.5l-1.7-7.4-4.6,2.3 1.8,7.6z"/>
<path color="#07f" d="M259.7,455.1l-.8-6.6-4.5,2.5 .8,6.2z"/>
<path color="#02f" d="M260.5,461.6l-.8-6.5-4.5,2.1 .7,6.2z"/>
<path color="#20f" d="M261.3,466.9l-.8-5.3-4.6,1.8 .9,5.4z"/>
<path color="#70d" d="M262.1,472.2l-.8-5.3-4.5,1.9 .8,5.3z"/>
<path color="#70a" d="M263.8,479.6l-1.7-7.4-4.5,1.9 1.7,7.6z"/>
<path color="#708" d="M276,484.5l-2.1-.6-2-.6-2.1-.6-2-.6-2-.7-2-1.8-4.5,2.1 2,1.9 2,.7 2.1,.6 2,.6 2.1,.6 2,.6z"/>
<path color="#c00" d="M150.3,334l-1.7,5.5-1.7-3.8-5.1,.2 1.7,8.4 1.7-7.6zM152.6,343.5l-.6-8.7-5.1,2.2 .6,8.5zM160.6,342.6l-.9-7-5.1,6.3 .9,6.1z"/>
<path color="#b00" d="M152,334.8l-1.7-.8-5.1,2.7 1.7,.3zM159.7,335.6l-.8-7-5.1,7.3 .8,6z"/>
<path color="#a00" d="M158.9,328.6l-.9,2.7-5.1,4.7 .9-.1z"/>
<path color="#e00" d="M161.1,350.7l-.5-8.1-5.1,5.4 .6,6.1zM169.8,354.8l-.5-11.8-5,1.7 .5,10.5zM180.9,347.7l-.9-4.8-5.1,9 .9,5.2z"/>
<path color="#d00" d="M166.4,345.5l-.6-6.5-.6,6.3-5.1,5.9 .6-4.8 .6,5.8zM180,342.9l-1.8-.5-5,4.4 1.7,5.1z"/>
<path color="#f00" d="M170.9,378.1l-.5-11.6-.6-11.7-5,.4 .6,10.4 .5,10.3zM188.8,370l-.5-5.8-.6-5.9-.5-5.8-.9,1.1-1,1.2-1.8,.6-1.8-2.8-.8-4.9-5.1,9.4 .9,5.3 1.8-2.9 1.8-1.1 .9,6.2 .8,6.2 .6,4.9 .6,4.9 .5,4.9zM202.3,377.8l-.6-5.3-1.9,3.9-.9-4.1-.8-4.1-1,4.5-1,4.5-.5-7.7-.5-7.7-.6-7.7-.6,4.6-.7,4.6-.7,4.5-.9,1.4-1,1.4-5,8.8 1-5.1 1-5.2 .6-.5 .6-.5 .6-.6 .6,3.8 .6,3.8 .5,3.8 1-1.8 .9-1.7 .9,2.9 .9,2.8 1.9-3.7 .6,3.9zM209.8,380.7l-.6-6.7-.9,1-5,4.4 1.1-5.7 .5,6.5z"/>
<path color="#f20" d="M190.6,370.6l-1.8-.6-5.1,15.5 1.9-6.1zM208.3,375l-1,.9-5,9.3 1-5.8zM216.8,377.1l-1,2.2-5,7.7 1,1.1z"/>
<path color="#f40" d="M202.8,383.1l-.5-5.3-5,3.5 .6,3.9zM210.3,387.3l-.5-6.6-4.9-.5 .5,6.5zM215.8,379.3l-1,2.3-1.9,2.5-4.9-1.1 1.9,2.8 .9,1.2zM217.7,381.9l-.9-4.8-5,11 .9,3z"/>
<path color="#f60" d="M203.3,388.3l-.5-5.2-4.9,2.1 .5,3.9zM218.6,386.7l-.9-4.8-5,9.2 .9,3zM227,387.2l-.5-5.4-2.1,2.9-5,10.4 2-1.6 .6,3.4z"/>
<path color="#f90" d="M211.8,389.1l-1,4.9-.5-6.7-4.9-.6 .5,6.4 1.1-5zM219.4,393l-.8-6.3-5,7.4 .9,3.7zM227.5,392.6l-.5-5.4-5,9.7 .5,3.3z"/>
<path color="#fc0" d="M222.2,396.1l-2,3.1-.8-6.2-4.9,4.8 .9,3.8 1.9-.9zM228,398l-.5-5.4-5,7.6 .6,3.3z"/>
<path color="#fe0" d="M228.8,405.1l-.8-7.1-4.9,5.5 .9,5.9z"/>
<path color="#df0" d="M229.6,412.1l-.8-7-4.8,4.3 .8,5.9z"/>
<path color="#9e0" d="M232.4,417.8l-.8-5-4.7-1.2 .8,7.3zM239.3,419.7l-.9-2.8-4.7-.6 .8,7.3z"/>
<path color="#be0" d="M238.4,416.9l-.9-2.9-1.1,1.3-4.6-1.6 1.1-4.7 .8,7.3z"/>
<path color="#6e0" d="M242.2,421.1l-1.1,3.1-1.8-4.5-4.8,3.9 1.8,5.2 1.1-1.1zM244.2,423.8l-.9-5.8-4.9,8.5 .9,5.3z"/>
<path color="#8e0" d="M243.3,418l-1.1,3.1-4.8,6.6 1-1.2z"/>
<path color="#2e1" d="M246.1,427.7l-1.1,1.8-.8-5.7-4.9,8 .8,5.3 1.2-4.5z"/>
<path color="#4e0" d="M247.9,431.9l-.8-5.9-1,1.7-4.8,4.9 1.1-4.6 .8,6.1z"/>
<path color="#0e2" d="M248.7,437.9l-.8-6-4.7,2.2 .8,6.1z"/>
<path color="#0e7" d="M252.6,443.4l-1.8-6.1-2.1,.6-4.7,2.3 2.1-.1 1.8,5.7z"/>
<path color="#0cf" d="M254.4,451l-1.8-7.6-4.7,2.4 1.8,7.7z"/>
<path color="#05f" d="M255.2,457.2l-.8-6.2-4.7,2.5 .8,5.9z"/>
<path color="#02f" d="M255.9,463.4l-.7-6.2-4.7,2.2 .8,5.9z"/>
<path color="#20f" d="M256.8,468.8l-.9-5.4-4.6,1.9 .9,5.3z"/>
<path color="#70d" d="M257.6,474.1l-.8-5.3-4.6,1.8 .8,5.3z"/>
<path color="#70a" d="M259.3,481.7l-1.7-7.6-4.6,1.8 1.8,7.9z"/>
<path color="#708" d="M271.5,486.7l-2-.6-2.1-.6-2-.6-2.1-.6-2-.7-2-1.9-4.5,2.1 1.9,2.1 2.1,.6 2,.6 2.1,.7 2,.6 2.1,.6z"/>
<path fill="none" stroke="#8c8c8c" stroke-width=".4" stroke-opacity=".7" d="M257.2,441.1L247.9,445.8M238,419.6L228.4,426.2M219.7,377.3L209.9,385.8M200.9,375.5L191.1,378.9M183.2,338.2L173.2,346.8M165.6,337.2L155.5,348"/>
<path fill="none" stroke="#4a4a3a" stroke-width=".45" stroke-opacity=".8" d="M267,489l-2.1-.6-2-.6-2.1-.7-2-.6-2.1-.6-1.9-2.1-1.8-7.9-1.7-10.6-1.6-11.8-1.8-7.7-1.8-5.7-2.1,.1-1.6-12.2-2.3,9.1-1.7-10.6-2.1,2.3-1.8-5.2-1.6-14.6-2.3,9.4-2.2,7.8-1.5-14.6-2.1,3.7-1.7-11.8-1.7-10-2,1.6-2.1,5.6-1.9,.9-1.8-7.5-1.8-6-1.9-2.3-1.9-2.8-2.1,10.1-1.5-19.4-2.1,11.5-1.9,1.8-2,2.1-1.7-11.7-1.9,3.7-1.8-5.7-1.9,3.5-1.7-11.4-1.8,1.6-2,10.3-1.9,6.1-1.7-14.7-1.7-12.4-1.8,1.1-1.8,2.9-1.8-10.5-1.7-5.1-1.9,22.5-1.8-13.6-1.9,30.4-1.7-10.2-1.6-31.2-1.8,19-1.8-17.3-1.7,14.3-1.8,5.4-1.7-18.1-1.7-12.1-1.8,.2-1.7,9.6-1.6,16.7-1.8-25.4-1.7-.3-1.7,7.6-1.7-8.4-1.6,10.4-1.7,.4"/>
<path color="#c00" d="M145.2,336.7l-1.7,7.6-.8-4.2-.9-4.2-.8,5.2-5.2,3.5 .8-1.4 .9-1.5 .8-1.6 1.7-1.4zM146.9,337l-.9-.1-5.1,5.1 .8,3.2zM154.3,339.9l-.5-4-5.2,4.7 .6,5.5z"/>
<path color="#b00" d="M146,336.9l-.8-.2-5.2,2 .9,3.3zM153.8,335.9l-1.8,.2-.8,4.8-5.2,.4 .9-1.7 1.7,1z"/>
<path color="#d00" d="M147.5,345.5l-.6-8.5-5.2,8.2 .6,7.9zM154.9,344l-.6-4.1-5.1,6.2 .6,5.5z"/>
<path color="#f00" d="M163.6,351.1l-.6,6.3-.5,6.3-.9-8.6-.9-8.7-.9,7.2-.8,7.1-1.8,5.4-.8-9-.9-9.1-.6-4-5.1,7.6 .6,5.4 .8,2.6 .9,2.5 1.8-2 .8-5.3 .9-5.4 .9,6.8 .8,6.7 .6-5 .6-5zM165.9,375.9l-.5-10.3-.6-10.4-.5-10.5-5.2,3.2 .6,10 .6,9.9 .5,9.9zM182,370.8l-.8-6.2-.9-6.2-.9,.6-.9,.5-1.8,2.9-.9-5.3-.9-5.2-1.7-5.1-.7,7.5-.6,7.5-.6,7.5-.9-6.8-.9-6.8-.6,10.3-.6,10.1-5.1,2.5 .6-7 .6-7 .9,3.9 .9,4 .6-4.6 .6-4.7 .6-4.6 1.8,2 .9,3.3 .9,3.4 1.8-2.5 .9,3 .9,3 .9,2.7 .9,2.8zM190.3,373.2l-.9-5.7-.9,.8-.9,.8-5.2,12.8 1-3.3 .9-3.2 .9,3.6z"/>
<path color="#f20" d="M182.9,378.1l-.9-7.3-5,5.5 .8,7.2zM193,375.4l-1.9,3.5-.8-5.7-5.1,5.8 .9,3.7 1.8,1zM204.9,380.2l-.5-6.5-1.1,5.7-5.1,10.5 1-4.2 .6,3.9z"/>
<path color="#f60" d="M185.6,379.4l-1.9,6.1-.8-7.4-5.1,5.4 .9,7.1 1.8-3zM203.3,379.4l-1,5.8-1,.9-.9,.9-1,1.1-5,1.3 1-2.9 .9,3.9 .9,3.8 1-4.3zM205.4,386.7l-.5-6.5-5.1,9.4 .6,3.8zM211.8,388.1l-1.9-2.3-.9-1.4-1-1.4-5.1,12.4 1-2.5 1-2.5 1.9,2z"/>
<path color="#f40" d="M197.6,383.3l-.9-5.9-1.9,3.7-1.8-5.7-5.1,8.3 1.9,2.6 1.8,.7 .9,2.7z"/>
<path color="#f90" d="M199.4,388.1l-1,1-.8-5.8-5.1,6.4 1,2.6 .9-2.9zM205.9,393.1l-.5-6.4-5,6.7 .5,3.9zM213.6,394.1l-1.8-6-5,4.3 1.8,6.5z"/>
<path color="#fc0" d="M215.4,401.6l-1.8-7.5-5,4.8 1.9,4zM222.3,398.5l-.9-5-5.1,10.7 .9,4.1z"/>
<path color="#fe0" d="M216.3,401.1l-.9,.5-4.9,1.3 .8,4.3zM223.1,403.5l-.8-5-5.1,9.8 .9,4.1z"/>
<path color="#ef0" d="M217.3,400.7l-1,.4-5,6.1 .9,4.3z"/>
<path color="#fa0" d="M221.4,393.5l-2,1.6-5.1,8.5 2,.6z"/>
<path color="#df0" d="M224,409.4l-.9-5.9-5,8.9 .9,1.2z"/>
<path color="#be0" d="M227.7,418.9l-.8-7.3-2.1,3.7-.8-5.9-5,4.2 1,1.2 2-.5 .8,5.4zM233.7,416.3l-.8-7.3-4.9,4.3 .8,7.3z"/>
<path color="#8e0" d="M230.6,418.4l-2.2,7.8-.7-7.3-4.9,.8 .9,5.4 2-.8zM234.5,423.6l-.8-7.3-4.9,4.3 .8,7.2z"/>
<path color="#4e0" d="M239.3,431.8l-.9-5.3-2.1,2.3-1.8-5.2-4.9,4.2 1.8,7.6 2.1-3.5 .9,4.9z"/>
<path color="#0e2" d="M241.3,432.6l-1.2,4.5-.8-5.3-4.9,5 .9,4.8 1.1-3.7zM244,440.2l-.8-6.1-4.8,4.1 .9,4.1z"/>
<path color="#2e1" d="M243.2,434.1l-.8-6.1-1.1,4.6-4.9,5.3 1.1-3.8 .9,4.1z"/>
<path color="#0e7" d="M246.1,440.1l-2.1,.1-4.7,2.1 2,1.1z"/>
<path color="#0ed" d="M247.9,445.8l-1.8-5.7-4.8,3.3 1.9,4.7z"/>
<path color="#09f" d="M249.7,453.5l-1.8-7.7-4.7,2.3 1.8,8.4z"/>
<path color="#05f" d="M250.5,459.4l-.8-5.9-4.7,3 .8,5.4z"/>
<path color="#02f" d="M251.3,465.3l-.8-5.9-4.7,2.5 .9,5.5z"/>
<path color="#20f" d="M252.2,470.6l-.9-5.3-4.6,2.1 .8,5.3z"/>
<path color="#70d" d="M253,475.9l-.8-5.3-4.7,2.1 .8,5.2z"/>
<path color="#70a" d="M254.8,483.8l-1.8-7.9-4.7,2 1.8,8.1z"/>
<path color="#708" d="M267,489l-2.1-.6-2-.6-2.1-.7-2-.6-2.1-.6-1.9-2.1-4.7,2.2 2,2.1 2,.7 2.1,.6 2,.7 2.1,.6 2.1,.6z"/>
<path color="#b00" d="M140,338.7l-1.7,1.4-5.3-4.3 1.7,4.9z"/>
<path color="#c00" d="M140.9,342l-.9-3.3-5.3,2 .9,6.4zM148.6,340.6l-1.7-1-.9,1.7-.9,1.6-5.2-2.8 .8,1.5 .9,1.6 1.8,2.2z"/>
<path color="#d00" d="M149.2,346.1l-.6-5.5-5.2,4.8 .6,7z"/>
<path color="#f00" d="M158.5,352.9l-.6,5-.6,5-.8-6.7-.9-6.8-.9,5.4-.8,5.3-1.8,2-.9-2.5-.8-2.6-.6-5.4-.6-5.5-5.2,6.3 .6,6.9 .6,6.8 .8-4 .9-4 1.7,1.3 .9-3.5 .9-3.4 .9,4.8 .9,4.8 .5-3.6 .6-3.7zM160.8,377.7l-.5-9.9-.6-9.9-.6-10-5.2,3.2 .6,9.5 .6,9.4 .6,9.4zM175.2,370.8l-.9-3-.9-3-1.8,2.5-.9-3.4-.9-3.3-1.8-2-.6,4.6-.6,4.7-.6,4.6-.9-4-.9-3.9-.6,7-5.2,5.8 .6-3.9 .9,1.1 .9,1.1 .6-1.7 .6-1.7 .6-1.8 1.8-1.2 .9,1.5 .9,1.5 1.8-2.2 .9,6.5 .9,6.6z"/>
<path color="#f20" d="M177,376.3l-.9-2.8-.9-2.7-5.2,12.4 .9-.6 .9-.6zM185.2,379l-.9-3.6-.9,3.2-5.2,10.4 1-5.7 .9,1.6z"/>
<path color="#f40" d="M177.8,383.5l-.8-7.2-5.2,5.7 .9,6.9zM186.1,382.7l-.9-3.7-5.1,5.9 .9,1.7z"/>
<path color="#f90" d="M178.7,390.6l-.9-7.1-5.1,5.4 .9,6.8zM192.5,389.7l-.9-2.7-1.8-.7-5.1,5.3 1.8,5.1 .9-.6zM199.8,389.6l-.6-3.9-1,4.2-5.2,10.7 1-2.8 .6,1.2zM206.8,392.4l-1.9-2-1,2.5-5.1,8.7 1-6.5 1.9,1.6z"/>
<path color="#f60" d="M189.8,386.3l-1.9-2.6-1.8-1-5.1,3.9 1.8,5.5 1.9-.5zM196.3,390.4l-.9-3.9-1,2.9-5,1.4 1-4.7 .8,8.6z"/>
<path color="#fa0" d="M193.5,392.3l-1-2.6-5.1,6.4 1-.6zM198.2,389.9l-1,4.3-.9-3.8-5.1,4.3 .9,8.6 .9-2.7zM200.4,393.4l-.6-3.8-5.2,9.4 .7,1.3zM208.6,398.9l-1.8-6.5-5.1,4.3 1.8,7z"/>
<path color="#fc0" d="M203.9,392.9l-1,2.5-1,1-1,.9-.5-3.9-5.1,6.9 .6,1.3 .9,3.2 .9,3.2 1.1-6.4zM210.5,402.9l-1.9-4-5.1,4.8 2,.7z"/>
<path color="#ef0" d="M211.3,407.2l-.8-4.3-5,1.5 .8,9zM216.3,404.2l-2-.6-5.1,8.6 1.9,2.8z"/>
<path color="#be0" d="M213.3,407.6l-1.1,3.9-.9-4.3-5,6.2 .8,9 1.1-5.1zM222.8,419.7l-.8-5.4-2,.5-1-1.2-.9-1.2-.9-4.1-5.1,9.9 .9,3.2 1-3.6 1.1-3.5 1.9,2.7 .9,3.5zM228.8,420.6l-.8-7.3-1.2,5.5-4.9,5.1 1.1-6.3 .8,7.3z"/>
<path color="#df0" d="M217.2,408.3l-.9-4.1-5.2,10.8 1,3.2z"/>
<path color="#8e0" d="M223.7,425.1l-.9-5.4-4.9,.8 1,3.5z"/>
<path color="#6e0" d="M225.7,424.3l-2,.8-4.8-1.1 1.8,6.2zM229.6,427.8l-.8-7.2-5,4.3 .9,7.2z"/>
<path color="#2e1" d="M234.4,436.8l-.9-4.9-2.1,3.5-1.8-7.6-4.9,4.3 1.7,10 2.1-4.7 .9,4.4z"/>
<path color="#0e7" d="M236.4,437.9l-1.1,3.7-.9-4.8-5,5 .9,4.3 1.1-2.9zM241.3,443.4l-2-1.1-.9-4.1-4.9,4.1 1,2.1 1.9,2.4z"/>
<path color="#0e2" d="M238.4,438.2l-.9-4.1-1.1,3.8-5,5.3 1.1-3 1,2.1z"/>
<path color="#0ed" d="M243.2,448.1l-1.9-4.7-4.9,3.4 2,3.7z"/>
<path color="#09f" d="M245,456.5l-1.8-8.4-4.8,2.4 1.7,9z"/>
<path color="#05f" d="M245.8,461.9l-.8-5.4-4.9,3 .9,5z"/>
<path color="#02f" d="M246.7,467.4l-.9-5.5-4.8,2.6 .9,5z"/>
<path color="#20f" d="M247.5,472.7l-.8-5.3-4.8,2.1 .8,5.2z"/>
<path color="#70d" d="M248.3,477.9l-.8-5.2-4.8,2 .9,5.3z"/>
<path color="#70a" d="M250.1,486l-1.8-8.1-4.7,2.1 1.8,8.1z"/>
<path color="#708" d="M262.4,491.3l-2.1-.6-2.1-.6-2-.7-2.1-.6-2-.7-2-2.1-4.7,2.1 2,2.3 2,.7 2.1,.6 2.1,.7 2,.6 2.1,.7z"/>
<path fill="none" stroke="#8c8c8c" stroke-width=".4" stroke-opacity=".7" d="M247.9,445.8L238.4,450.5M228.4,426.2L218.9,424M209.9,385.8L199.8,395.1M191.1,378.9L181,386.6M173.2,346.8L162.8,370.5M155.5,348L145.2,366.1"/>
<path fill="none" stroke="#4a4a3a" stroke-width=".45" stroke-opacity=".8" d="M257.7,493.7l-2.1-.7-2-.6-2.1-.7-2.1-.6-2-.7-2-2.3-1.8-8.1-1.7-10.5-1.8-10-1.7-9-2-3.7-1.9-2.4-2-4.2-2.2,5.9-1.8-8.7-2.1,4.7-1.7-10-1.7-14.5-2.3,12.6-1.8-6.2-1.9-7-1.9-2.7-2.1,7.1-1.9-6.4-1.9-2.8-2.1,10.2-1.6-18-2-.7-1.8-7-1.9-1.6-2.1,12.9-1.8-6.4-1.9-3.8-1.9,5.5-1.7-17.2-2,9.4-1.9,1.2-1.8-5.1-1.9,.5-1.8-5.5-1.8-3.3-2,11.5-1.8,1-1.8-.1-1.8-13.7-1.8,1.2-1.8-13.1-1.8,2.2-1.8-3-1.8,1.2-1.8,5.2-1.8-2.2-1.7,11.5-1.8-5.6-1.8-28.3-1.7,11-1.8-9.6-1.8,6.9-1.7-1.3-1.7,8-1.8-20.7-1.8-2.2-1.7-3.1-1.5,35.3-1.9-21.9-1.8-12.8-1.7-4.9-1.6,14.8-1.7-4.9-1.7,.2"/>
<path color="#e00" d="M130.6,348.2l-.9-2.5-1.7,.2-5.3,6.3 1.7-3.9 .9,4.3zM144,352.4l-.6-7-5.3,3.5 .6,7.8z"/>
<path color="#b00" d="M134.7,340.7l-1.7-4.9-5.3,5.2 1.7,5.4z"/>
<path color="#d00" d="M135.6,347.1l-.9-6.4-5.3,5.7 .9,4.8zM143.4,345.4l-1.8-2.2-5.3,3.8 1.8,1.9z"/>
<path color="#c00" d="M141.6,343.2l-1.7-3.1-5.3,6.1 1.7,.8z"/>
<path color="#f00" d="M155.1,370l-.6-9.4-.6-9.5-.9,5.5-.8,5.5-.9-4.8-.9-4.8-1.8,6.9-1.7-1.3-.9,4-.8,4-.6-6.8-.6-6.9-5.3,4.3 .6,7.8 .6,7.8 .9-5.6 .8-5.6 1.8,5.3 1.7-4.7 .9,1.6 .9,1.6 .9-4.1 .8-4.1 .6,9.1 .7,9zM165.8,371.3l-.6-1-.6-1-1.8,1.2-1.8,5.2-.9-1.1-5.2,5.1 .9-3.2 1.8,1.7 1.8-3.5 .6,4.2 .6,4.1zM169.1,376.6l-.9-6.5-.6,.7-.6,.8-5.2,10 .6-5.7 .6-5.7 .9,7.1z"/>
<path color="#f20" d="M155.7,379.4l-.6-9.4-5.2,4.8 .6,9zM160.1,374.6l-.9-1.1-5.2,9.3 .9-3.1zM167,371.6l-.6,.7-.6-1-5.2,11.7 .6,4.2 .6-5.6zM170,383.2l-.9-6.6-5.2,.7 .9,7z"/>
<path color="#f40" d="M171.8,382l-1.8,1.2-5.2,1.1 1.8,.1z"/>
<path color="#f60" d="M172.7,388.9l-.9-6.9-5.2,2.4 .9,5.4zM182.8,392.1l-1.8-5.5-.6-1.1-.6-1.1-.6-1.1-5.3,12.8 .7-3.3 .6-3.3 .6-3.4 1.9,5.3z"/>
<path color="#fa0" d="M173.6,395.7l-.9-6.8-5.2,.9 .9,5.5zM185.6,394.1l-.9-2.5-5.2,2.7 .9,3.9zM201.7,396.7l-1.9-1.6-1,6.5-5.1,1.2 1-2 1.8,5.2z"/>
<path color="#f90" d="M184.7,391.6l-1.9,.5-5.1-.7 1.8,2.9zM191.2,394.7l-.8-8.6-5.2,4.6 .9,6.8z"/>
<path color="#fc0" d="M195.9,401.6l-1.9-3.8-1.9,5.5-.9-8.6-5.1,2.8 .9,6.9 1.9-5.7 1.9,5.7zM203.5,403.7l-.9-3.5-.9-3.5-5.2,9.3 1-.9 1-.9z"/>
<path color="#fe0" d="M198.8,401.6l-1.1,6.4-1.8-6.4-5.1,2.8 1.9,.3 1-1.9zM205.5,404.4l-1-.4-1-.3-5,.5 .9,3.1 .9,3z"/>
<path color="#ef0" d="M206.3,413.4l-.8-9-5.2,5.9 .9,5.5z"/>
<path color="#9e0" d="M208.2,417.3l-1.1,5.1-.8-9-5.1,2.4 .9,5.4 1.1-4.8zM213,421.4l-1.9-6.4-5,4.8 1.9,.7zM218.9,424l-1.9-7-5,4.7 1.8,5.2zM223.8,424.9l-.8-7.3-1.1,6.3-5,2 1-.5 .9,5.2z"/>
<path color="#df0" d="M210.2,413.6l-1-1.4-1,5.1-5-.9 1-4.8 .9,4.1z"/>
<path color="#be0" d="M211.1,415l-.9-1.4-5.1,2.1 1,4.1zM217,417l-1.9-2.7-2.1,7.1-5-.9 2-.1 2,1.3z"/>
<path color="#8e0" d="M221.9,423.9l-1.2,6.3-1.8-6.2-5.1,2.9 2-.4 1.1-.6z"/>
<path color="#6e0" d="M224.7,432.1l-.9-7.2-5,5.7 .8,5.2z"/>
<path color="#0e2" d="M230.3,446.1l-1.8-8.7-2.1,4.7-1.7-10-5.1,3.7 1.9,7.5 2.1-3.5 1.9,4.8z"/>
<path color="#0e7" d="M234.5,444.4l-2-4.2-2.2,5.9-4.8-1.5 2,.9 2,.9z"/>
<path color="#0ed" d="M236.4,446.8l-1.9-2.4-5,2 1.9,5.6z"/>
<path color="#0cf" d="M238.4,450.5l-2-3.7-5,5.2 2,2.7z"/>
<path color="#09f" d="M240.1,459.5l-1.7-9-5,4.2 1.8,8.3z"/>
<path color="#05f" d="M241,464.5l-.9-5-4.9,3.5 .9,4.7z"/>
<path color="#00f" d="M241.9,469.5l-.9-5-4.9,3.2 .9,4.7z"/>
<path color="#20f" d="M242.7,474.7l-.8-5.2-4.9,2.9 .9,5z"/>
<path color="#70d" d="M243.6,480l-.9-5.3-4.8,2.7 .9,4.9z"/>
<path color="#70a" d="M245.4,488.1l-1.8-8.1-4.8,2.3 1.8,8.2z"/>
<path color="#708" d="M257.7,493.7l-2.1-.7-2-.6-2.1-.7-2.1-.6-2-.7-2-2.3-4.8,2.4 2,2.2 2,.8 2.1,.6 2.1,.7 2.1,.6 2.1,.7z"/>
<path color="#f00" d="M126.9,349l-.7,8-.9-4.4-.9-4.3-1.7,3.9-5.3,6.4 1.6-7.7 .9,6.3 .9,6.2 .8-8.6zM132.5,371.8l-.6-7.9-.7-7.9-.9-4.8-5.3,4.1 .9,3.2 .6,8.5 .7,8.4zM149.9,374.8l-.7-9-.6-9.1-.8,4.1-.9,4.1-.9-1.6-.9-1.6-1.7,4.7-1.8-5.3-.8,5.6-.9,5.6-.6-7.8-.6-7.8-.6-7.8-5.4,3.5 .6,8.7 .7,8.7 .6,8.7 .8-7.2 .9-7.2 1.8,9.4 1.7-2.5 .9-1.6 .8-1.7 .9-2.6 .9-2.6 .6,8.6 .7,8.6zM163.9,377.3l-.9-7.1-.6,5.7-5.3,5.2 .6-10.7 .9,7.5z"/>
<path color="#d00" d="M129.4,346.4l-1.7-5.4-.8,8-5.3,5.8 .7-8.6 1.8,5.9zM136.3,347l-1.7-.8-5.4,6.3 1.7-1.6z"/>
<path color="#e00" d="M130.3,351.2l-.9-4.8-5.3,5.7 .9,3.2zM138.1,348.9l-1.8-1.9-5.4,3.9 1.8,1.5z"/>
<path color="#f40" d="M150.5,383.8l-.6-9-5.3,4.9 .6,8.5zM166.6,384.4l-1.8-.1-5.3,1.1 1.8,1.4zM177.7,391.4l-1.9-5.3-5.2-.4 1.8,5z"/>
<path color="#f60" d="M154.9,379.7l-.9,3.1-.9,1.6-.9,1.5-1.7-2.1-5.3,4.4 1.7-1.4 .9,2.7 .9,2.7 .9-7.3zM167.5,389.8l-.9-5.4-5.3,2.4 1,4z"/>
<path color="#f20" d="M160,378.9l-.6-4.2-1.8,3.5-1.8-1.7-.9,3.2-5.3,5.2 .9-7.5 1.8,8.5 1.8-5.8 .6,7.4zM164.8,384.3l-.9-7-5.3,.6 .9,7.5z"/>
<path color="#f90" d="M168.4,395.3l-.9-5.5-5.2,1 .9,4zM179.5,394.3l-1.8-2.9-5.3-.7 1.9,6.3zM186.1,397.5l-.9-6.8-1,2.3-.9,2.3-5.2-.1 .9,.1 1,.1 .9,5z"/>
<path color="#fa0" d="M180.4,398.2l-.9-3.9-5.2,2.7 .9,5.4z"/>
<path color="#fc0" d="M190.8,404.4l-1.9-5.7-1.9,5.7-.9-6.9-5.2,2.9 .9,5.1 1.9-5.9 1.9,7.7zM194.7,400.8l-1,2-1,1.9-5.1-3.3 .9,2.5 .9,2.6z"/>
<path color="#fe0" d="M196.5,406l-1.8-5.2-5.3,5.7 1.9,8.8zM199.4,407.3l-.9-3.1-1,.9-5.2,4.9 1-5.3 .9,5.8z"/>
<path color="#ef0" d="M197.5,405.1l-1,.9-5.2,9.3 1-5.3zM200.3,410.3l-.9-3-5.2,3.2 .9,5.8z"/>
<path color="#df0" d="M201.2,415.8l-.9-5.5-5.2,6 1,1.9zM205.1,415.7l-.9-4.1-1,4.8-5.1-.9 1-4.6 .9,6.9z"/>
<path color="#be0" d="M203.2,416.4l-1.1,4.8-.9-5.4-5.1,2.4 .9,1.8 1.1-4.5zM206.1,419.8l-1-4.1-5.1,2.1 .9,6.8z"/>
<path color="#9e0" d="M212,421.7l-2-1.3-2,.1-1.9-.7-5.2,4.8 2-4.9 1.9,6.8 2,0zM216.9,425.9l-1.1,.6-4.9-3.7 .9,5.2z"/>
<path color="#8e0" d="M215.8,426.5l-2,.4-1.8-5.2-5.2,4.8 1.9,3.4 2.2-7.1zM217.9,425.4l-1,.5-5.1,2.1 .9,5.2z"/>
<path color="#6e0" d="M218.8,430.6l-.9-5.2-5.2,7.8 .9,3.2z"/>
<path color="#4e0" d="M219.6,435.8l-.8-5.2-5.2,5.8 1,3.2z"/>
<path color="#0e2" d="M225.5,444.6l-1.9-4.8-2.1,3.5-1.9-7.5-5,3.8 1.9,5.1 2.1-2.6 2,1z"/>
<path color="#0e7" d="M229.5,446.4l-2-.9-2-.9-4.9-1.5 1.8,7.6 2.1-2.2z"/>
<path color="#0ed" d="M231.4,452l-1.9-5.6-5,2.1 1.9,8.7z"/>
<path color="#0cf" d="M233.4,454.7l-2-2.7-5,5.2 2,1.7z"/>
<path color="#07f" d="M235.2,463l-1.8-8.3-5,4.2 1.9,7.7z"/>
<path color="#02f" d="M236.1,467.7l-.9-4.7-4.9,3.6 .9,4.4z"/>
<path color="#00f" d="M237,472.4l-.9-4.7-4.9,3.3 .9,4.3z"/>
<path color="#20f" d="M237.9,477.4l-.9-5-4.9,2.9 .9,4.7z"/>
<path color="#70d" d="M238.8,482.3l-.9-4.9-4.9,2.6 .9,4.7z"/>
<path color="#70a" d="M240.6,490.5l-1.8-8.2-4.9,2.4 1.8,8.1z"/>
<path color="#708" d="M253,496.1l-2.1-.7-2.1-.6-2.1-.7-2.1-.6-2-.8-2-2.2-4.9,2.3 2,2.3 2.1,.7 2.1,.7 2,.7 2.1,.6 2.1,.7z"/>
<path fill="none" stroke="#8c8c8c" stroke-width=".4" stroke-opacity=".7" d="M238.4,450.5L228.4,458.9M218.9,424L208.7,429.9M199.8,395.1L189.4,406.5M181,386.6L170.6,385.7M162.8,370.5L152.3,385.9M145.2,366.1L134.6,378.5"/>
<path fill="none" stroke="#4a4a3a" stroke-width=".45" stroke-opacity=".8" d="M248.1,498.5l-2.1-.7-2.1-.6-2-.7-2.1-.7-2.1-.7-2-2.3-1.8-8.1-1.8-9.4-1.8-8.7-1.9-7.7-2-1.7-1.9-8.7-2.1,2.2-1.8-7.6-2-1-2.1,2.6-1.9-5.1-1.9-6.4-1.8-10.4-2.2,7.1-1.9-3.4-2,0-1.9-6.8-2,4.9-1.8-13.7-2.1,9.1-1.9-3.7-1.8-11.6-2,10.6-1.9-8.8-1.8-5.1-2,5.9-1.9-7.7-1.9,5.9-1.8-10.1-1.9-.2-2,12.5-1.8-10.7-1.9-6.3-1.8-5-2,23.3-1.7-16.6-1.9,4.2-1.8-1.8-1.9-8-1.8-1.4-1.8-15-1.8,31.7-1.8-22-1.8,5.8-1.8-8.5-1.8,14.8-1.8-5.4-1.7,1.4-1.9-25.7-1.8,5.2-1.7,3.3-1.7,2.5-1.8-9.4-1.7,14.4-1.9-26.1-1.8-1.5-1.7,1.6-1.4,31.3-1.9-25.3-1.8-6.4-1.8-5.9-1.5,17.2-1.8-12.5-1.6,7.7"/>
<path color="#f00" d="M121.6,354.8l-.8,8.6-.9-6.2-.9-6.3-1.6,7.7-5.4,8.7 1.6-4.5 .9-.6 .8-.6 .8-4.9zM127.2,375.4l-.7-8.4-.6-8.5-1.8-6.4-5.5,3.4 1.8,5 .6,6.5 .7,6.5zM143.9,371.1l-.6-8.6-.9,2.6-.9,2.6-1.7,3.3-.9,1.3-.8,1.2-.9-4.7-.9-4.7-.9,7.2-.8,7.2-.6-8.7-.7-8.7-.6-8.7-1.8-1.5-1.7,1.6-.4,10.5-.5,10.5-5.5-.8 .5-7.3 .5-7.3 1.8,3.7 1.7,1.4 .6,5.9 .7,5.8 .6,5.8 .8-8.1 .8-8.2 .9,6.6 1,6.5 .8-3.2 .9-3.1 1.7-4.8 .9,2.4 .9,2.5 .6,7.4zM158.6,377.9l-.9-7.5-.6,10.7-5.4,7.1 .6-6 .9,.6z"/>
<path color="#e00" d="M124.1,352.1l-1.8-5.9-.7,8.6-5.5,1.9 .7-5 1.8,3.8z"/>
<path color="#f20" d="M128.3,373.5l-.5,10.3-.6-8.4-5.5-1.9 .6,6.5 .5-7.3zM144.6,379.7l-.7-8.6-5.4,7.6 .7,7.3zM159.5,385.4l-.9-7.5-5.4,4.9 1,.6z"/>
<path color="#f60" d="M145.2,388.2l-.6-8.5-5.4,6.3 .6,7.3zM161.3,386.8l-.6-.5-.6-.4-5.3,2 .6,4.4 .6,4.4zM172.4,390.7l-1.8-5-.7,7.8-5.3,.5 .7-5.5 1.8,6.8z"/>
<path color="#f40" d="M154.7,387.5l-.6-7.4-1.8,5.8-.9-4.2-.9-4.3-.9,7.5-5.4,5.4 .9-2.2 .9-.6 .9-.6 1.8-2.2 .6,5.2zM160.1,385.9l-.6-.5-5.3-2 .6,4.5z"/>
<path color="#f90" d="M163.2,394.8l-1.9-8-5.3,9.9 1.8,.7zM174.3,397l-1.9-6.3-5.3,4.6 1.9,4.4zM180.9,400.4l-.9-5-.7-.1-.6-.1-5.3,6.5 .6-3.3 .7-3.4 .9,4.2z"/>
<path color="#fa0" d="M167.7,400.7l-.8-8.3-1.9,4.2-1.8-1.8-5.4,2.6 1.9,1.5 1.8-3.5 .9,4.8zM178.7,395.2l-.6,0-5.4,9.8 .7-3.3z"/>
<path color="#fc0" d="M175.2,402.4l-.9-5.4-5.3,2.7 .9,5zM188.5,403.9l-.9-2.5-2,5.9-1.9-7.7-1.9,5.9-.9-5.1-5.3-1.2 .9,4.2 1.9,.2 1.9,7.4 2-6.7 .9,4.2z"/>
<path color="#fe0" d="M189.4,406.5l-.9-2.6-5.3,4.6 .9,4.2zM194.2,410.5l-.9-5.8-1,5.3-5.3,3.7 1-3.4 1,5.4z"/>
<path color="#ef0" d="M191.3,415.3l-1.9-8.8-5.3,6.2 1.9,4.5z"/>
<path color="#df0" d="M195.1,416.3l-.9-5.8-5.2,5.2 .9,5.4zM200,417.8l-.9-6.9-1,4.6-5.3,5.3 1.1-4.8 .9,4.1z"/>
<path color="#be0" d="M198.1,415.5l-1.1,4.5-1.9-3.7-5.2,4.8 1.9,4.6 1-4.9zM200.9,424.6l-.9-6.8-5.2,2.3 .9,4.1z"/>
<path color="#9e0" d="M202.9,419.7l-1,2.5-1,2.4-5.2-.4 1,2.8 .9,2.9zM211.8,428l-.9-5.2-5.2,4.7 .9,4.8z"/>
<path color="#8e0" d="M210.9,422.8l-2.2,7.1-1.9-3.4-2,0-1.9-6.8-5.3,10.2 2,2 2-1.1 2-.3 2.1-3z"/>
<path color="#6e0" d="M212.7,433.2l-.9-5.2-5.2,4.3 .9,4.7z"/>
<path color="#4e0" d="M214.6,439.6l-1.9-6.4-5.2,3.8 2,3.9z"/>
<path color="#0e2" d="M216.5,444.7l-1.9-5.1-5.1,1.3 1.8,6.6zM220.6,443.1l-2-1-5.3,7.1 2.1-1.1z"/>
<path color="#0e7" d="M218.6,442.1l-2.1,2.6-5.2,2.8 2,1.7zM222.4,450.7l-1.8-7.6-5.2,5 1.9,8.7z"/>
<path color="#0ed" d="M224.5,448.5l-2.1,2.2-5.1,6.1 2.1-2.5z"/>
<path color="#0cf" d="M226.4,457.2l-1.9-8.7-5.1,5.8 1.9,7.3z"/>
<path color="#09f" d="M228.4,458.9l-2-1.7-5.1,4.4 2,2.9z"/>
<path color="#07f" d="M230.3,466.6l-1.9-7.7-5.1,5.6 1.9,6.1z"/>
<path color="#00f" d="M232.1,475.3l-1.8-8.7-5.1,4 1.9,7z"/>
<path color="#50e" d="M233.9,484.7l-1.8-9.4-5,2.3 1.8,9.5z"/>
<path color="#70a" d="M235.7,492.8l-1.8-8.1-5,2.4 1.8,8.1z"/>
<path color="#708" d="M248.1,498.5l-2.1-.7-2.1-.6-2-.7-2.1-.7-2.1-.7-2-2.3-5,2.4 2.1,2.4 2,.7 2.1,.7 2.1,.6 2.1,.7 2.1,.7z"/>
<path color="#f00" d="M128.6,374.9l-.7-5.8-.6-5.9-1.7-1.4-1.8-3.7-.5,7.3-.5,7.3-.5,7.3-.6-6.5-.7-6.5-.6-6.5-1.8-5-1.8-3.8-.7,5-.8,4.9-.8,.6-.9,.6-1.6,4.5-5.4,8.6 1.7-1.2 .7-7.5 .7-7.4 .8-1.2 .8-1.2 1.8,1.5 1.7,3.7 .7,4.5 .6,4.5 .6,4.5 .6-4.1 .5-4.2 .5-4.1 1.8,9 1.8,1.4 .6,3 .6,3zM138.5,378.7l-.6-7.4-.9-2.5-.9-2.4-1.7,4.8-.9,3.1-.8,3.2-1-6.5-.9-6.6-.8,8.2-.8,8.1-5.5,2.3 .8-9.1 .7-9.2 1,8.5 1,8.4 .8-5.2 .8-5.1 1.7-6.3 1,7.7 1,7.6 .6,6.1z"/>
<path color="#f20" d="M129.2,380.7l-.6-5.8-5.5,5.2 .6,2.9zM154.8,387.9l-.6-4.5-1-.6-5.4,5 .9-6.4 .6,8.5z"/>
<path color="#f40" d="M139.2,386l-.7-7.3-5.4,7.7 .6,6.1zM148.7,384.7l-1.8,2.2-5.5,.9 1.9,1.5zM153.2,382.8l-.9-.6-5.4,12 .9-6.4z"/>
<path color="#f90" d="M139.8,393.3l-.6-7.3-5.5,6.5 .7,6zM149.9,395l-.6-5.1-5.4,2.4 .6,2.9zM175.6,399.2l-.9-4.2-.7,3.4-5.4,3.1 .7-6.8 .9,3.3z"/>
<path color="#f60" d="M149.3,389.9l-.6-5.2-5.4,4.6 .6,3zM155.4,392.3l-.6-4.4-5.5,2 .7,8.4zM167.1,395.3l-1.8-6.8-.7,5.5-5.4,.5 .6-3 1.9,8.5z"/>
<path color="#fa0" d="M156,396.7l-.6-4.4-5.4,6 .6,8.4zM162.4,400.2l-.9-4.8-1.8,3.5-1.9-1.5-5.4,2.7 1.8,1 1.9-2.5 .9,1zM169,399.7l-1.9-4.4-5.4,4.7 1.9,2.5zM176.5,403.4l-.9-4.2-5.4-1.2 1,3.3z"/>
<path color="#fc0" d="M157.8,397.4l-1.8-.7-5.4,10 1.8-6.6zM163.3,404.9l-.9-4.7-5.4-.6 1,1zM169.9,404.7l-.9-5-5.4,2.8 .9,4.6zM178.4,403.6l-1.9-.2-5.3-2.1 1.9,6.4z"/>
<path color="#fe0" d="M183.2,408.5l-.9-4.2-2,6.7-1.9-7.4-5.3,4.1 1.8,7 2-7.5 .9,5.9z"/>
<path color="#ef0" d="M184.1,412.7l-.9-4.2-5.4,4.6 1,5.9zM189,415.7l-1-5.4-1,3.4-5.3,3.8 1-1.6 .9,5z"/>
<path color="#df0" d="M187,413.7l-1,3.5-1.9-4.5-5.3,6.3 1.9,.1 1-1.6zM194.8,420.1l-.9-4.1-5.4,5.1 1,1.4z"/>
<path color="#be0" d="M189.9,421.1l-.9-5.4-5.4,5.2 .9,5zM195.7,424.2l-.9-4.1-5.3,2.4 1,1.4z"/>
<path color="#9e0" d="M196.7,427l-1-2.8-5.2-.3 .9,8.1z"/>
<path color="#6e0" d="M197.6,429.9l-.9-2.9-5.3,5 .8,8.1zM201.6,430.8l-2,1.1-5.3,5.5 2-2.2z"/>
<path color="#4e0" d="M199.6,431.9l-2-2-5.4,10.2 2.1-2.7zM207.5,437l-.9-4.7-5.3,4.3 .9,4.3z"/>
<path color="#8e0" d="M206.6,432.3l-.9-4.8-2.1,3-2,.3-5.3,4.4 2.1-4.2 2,1.4 .9,4.2z"/>
<path color="#2e1" d="M209.5,440.9l-2-3.9-5.3,3.9 2,1.5z"/>
<path color="#0e2" d="M211.3,447.5l-1.8-6.6-5.3,1.5 1.9,8z"/>
<path color="#0e7" d="M213.3,449.2l-2-1.7-5.2,2.9 2,6z"/>
<path color="#0ed" d="M217.3,456.8l-1.9-8.7-2.1,1.1-5.2,7.2 2.1-3.2 1.8,9.8z"/>
<path color="#09f" d="M221.3,461.6l-1.9-7.3-5.3,5.8 2,5.9z"/>
<path color="#07f" d="M223.3,464.5l-2-2.9-5.2,4.4 2,4.1z"/>
<path color="#05f" d="M225.2,470.6l-1.9-6.1-5.2,5.6 1.9,4.5z"/>
<path color="#00f" d="M227.1,477.6l-1.9-7-5.2,4 2,5.2z"/>
<path color="#50e" d="M228.9,487.1l-1.8-9.5-5.1,2.2 1.8,9.7z"/>
<path color="#70a" d="M230.7,495.2l-1.8-8.1-5.1,2.4 1.9,8.2z"/>
<path color="#708" d="M243.2,501l-2.1-.7-2.1-.7-2.1-.6-2.1-.7-2-.7-2.1-2.4-5,2.5 2,2.3 2.1,.8 2.1,.6 2.1,.7 2.1,.7 2.1,.7z"/>
<path fill="none" stroke="#8c8c8c" stroke-width=".4" stroke-opacity=".7" d="M228.4,458.9L218.1,470.1M208.7,429.9L198.4,431M189.4,406.5L178.8,419M170.6,385.7L159.8,391.5M152.3,385.9L141.4,387.8M134.6,378.5L123.7,383"/>
<path fill="none" stroke="#4a4a3a" stroke-width=".45" stroke-opacity=".8" d="M238.2,503.5l-2.1-.7-2.1-.7-2.1-.7-2.1-.6-2.1-.8-2-2.3-1.9-8.2-1.8-9.7-2-5.2-1.9-4.5-2-4.1-2-5.9-2.1,2.9-1.8-9.8-2.1,3.2-2-6-1.9-8-2-1.5-1.8-8.5-2-1.4-2.1,4.2-2,2.2-2.1,2.7-1.7-16.2-2-2.8-2.1,10.2-1.9-5.4-1.8-10-2,3.2-1.9-.1-1.9-11.8-2,7.5-1.8-7-1.9-6.4-1.9-6.6-2,20.3-1.9-3.3-1.8-9.2-1.9-2.5-1.9-8.5-1.8,9.1-1.9-2-1.9,2.5-1.8-1-1.8,6.6-1.9-25.3-1.8,12.8-1.8,3.9-1.8-8.8-1.9-1.5-1.7,11.1-1.8-6.3-1.8,4.4-1.7,1.5-1.9-18.2-2-15.3-1.7,6.3-1.6,10.3-2-16.9-1.5,18.3-1.8-8.9-1.8-1.4-1.8-9-1.6,12.4-1.9-13.5-1.7-3.7-1.8-1.5-1.6,2.4-1.4,14.9-1.7,1.2"/>
<path color="#f00" d="M121.9,374.1l-1.8-1.4-1.8-9-.8,6.2-.8,6.2-.9-6.8-1-6.7-1.7-3.7-1.8-1.5-1.6,2.4-.7,7.4-.7,7.5-5.6,4.3 .7-7.5 .7-7.6 1.7-.4 1.7,4.1 1.8,.6 .9,3.5 .9,3.6 .8-1.9 .8-2 1.9,8.5 1.8,3.3zM132.5,380.3l-.7-5.1-.6-5.1-.7-5.1-.8,3.2-.9,3.1-.8,5.1-.8,5.2-1-8.4-1-8.5-.7,9.2-.8,9.1-5.6-2.7 .8-3.3 .8-3.3 .9,3.5 1,3.5 .8-1.6 .9-1.6 .8-4 .8-4.1 .7,5.9 .7,5.8 .6,5.9z"/>
<path color="#f20" d="M123.7,383l-.9-4.4-.9-4.5-5.5,9.1 .8-1.4 .9-1.5z"/>
<path color="#f40" d="M133.4,389.4l-.9-9.1-5.6,6.7 1,4.4zM142.3,388.6l-.9-.8-5.5-.8 .9,4.1zM149.3,389.9l-.6-8.5-.9,6.4-5.5,8.5 .9-5.3 .6,7.5z"/>
<path color="#f90" d="M134.4,398.5l-1-9.1-5.5,2 .9,4.5zM145.1,398.1l-1.8-8.8-5.6,5.9 1.9,6.1zM171.2,401.3l-1-3.3-.9-3.3-5.5,10.2 .9-1 1-1z"/>
<path color="#f60" d="M143.3,389.3l-1-.7-5.5,2.5 .9,4.1z"/>
<path color="#fa0" d="M150,398.3l-.7-8.4-5.5,8.6 .7,7.5zM161.7,400l-1.9-8.5-1.8,9.1-5.5,4.7 1.8-3.8 1.9,6.9zM172.1,404.5l-.9-3.2-5.5,1.6 .9,6.1z"/>
<path color="#fe0" d="M150.6,406.7l-.6-8.4-5.5,7.7 .6,7.4zM154.2,401.1l-.9-.5-5.5,7.3 1,3.9zM164.5,407.1l-.9-4.6-5.5,6.6 .9,5.1zM173.1,407.7l-1-3.2-5.5,4.5 1,6.1zM177.8,413.1l-.9-5.9-5.4,5 .9,5.7z"/>
<path color="#fc0" d="M153.3,400.6l-.9-.5-.9,3.3-5.5,5.3 .9-4.7 .9,3.9zM158,400.6l-1.9-2-1.9,2.5-5.4,10.7 1.8-3.8 1.9-2.7zM163.6,402.5l-1.9-2.5-5.5,8.4 1.9,.7z"/>
<path color="#ef0" d="M176.9,407.2l-2,7.5-1.8-7-5.5,7.4 1.9,1.5 2-4.4z"/>
<path color="#df0" d="M178.8,419l-1-5.9-5.4,4.8 .9,5.6z"/>
<path color="#be0" d="M182.7,415.9l-2,3.2-1.9-.1-5.5,4.5 1.9,3.9 2-4zM190.5,423.9l-2-2.8-5.4,4.6 2,0z"/>
<path color="#9e0" d="M184.5,425.9l-1.8-10-5.5,7.5 1.9,8.6zM191.4,432l-.9-8.1-5.4,1.8 .9,6.8z"/>
<path color="#6e0" d="M192.2,440.1l-.8-8.1-5.4,.5 .9,6.8zM201.3,436.6l-.9-4.2-5.4,5.1 .9,5.1z"/>
<path color="#4e0" d="M196.3,435.2l-2,2.2-2.1,2.7-5.3-.8 2,.9 2-1.1z"/>
<path color="#8e0" d="M200.4,432.4l-2-1.4-5.4,3.7 2,2.8z"/>
<path color="#2e1" d="M204.2,442.4l-2-1.5-.9-4.3-5.4,6 1,5.1 2,1.6z"/>
<path color="#0e2" d="M206.1,450.4l-1.9-8-5.3,6.9 1.9,4.5z"/>
<path color="#0ed" d="M210.2,453.2l-2.1,3.2-2-6-5.3,3.4 2,5.1 2.1-3.3z"/>
<path color="#0cf" d="M212,463l-1.8-9.8-5.3,2.4 1.9,7.1z"/>
<path color="#09f" d="M216.1,466l-2-5.9-2.1,2.9-5.2-.3 2.1,0 1.9,6.3z"/>
<path color="#05f" d="M218.1,470.1l-2-4.1-5.3,3 2,4.2z"/>
<path color="#02f" d="M220,474.6l-1.9-4.5-5.3,3.1 2,4.2z"/>
<path color="#00f" d="M222,479.8l-2-5.2-5.2,2.8 2,5z"/>
<path color="#50e" d="M223.8,489.5l-1.8-9.7-5.2,2.6 1.9,9.6z"/>
<path color="#70a" d="M225.7,497.7l-1.9-8.2-5.1,2.5 1.9,8.1z"/>
<path color="#708" d="M238.2,503.5l-2.1-.7-2.1-.7-2.1-.7-2.1-.6-2.1-.8-2-2.3-5.1,2.4 2,2.4 2.1,.8 2.1,.7 2.1,.7 2.1,.7 2.1,.6z"/>
<path color="#f00" d="M114.6,379.9l-1.9-8.5-.8,2-.8,1.9-.9-3.6-.9-3.5-1.8-.6-1.7-4.1-1.7,.4-.7,7.6-.7,7.5-5.7,4.4 .7-7.7 .7-7.6 1.7,1.6 1.9,6.7 1.6-2.6 .9,.4 .8,.4 .9,2.3 .9,2.3 1.9,8zM126.3,381.1l-.7-5.8-.7-5.9-.8,4.1-.8,4-.9,1.6-.8,1.6-1-3.5-.9-3.5-.8,3.3-.8,3.3-5.8-2.7 .9,2.6 .9,2.5 .9-1.5 .8-1.5 1,2.1 .9,2 .8-5 .8-5 .7,6.7 .6,6.6z"/>
<path color="#f40" d="M126.9,387l-.6-5.9-5.7,6 .7,6.7zM136.8,391.1l-.9-4.1-.9,6.5-5.6,.1 .8-7.5 1,7.5z"/>
<path color="#f60" d="M127.9,391.4l-1-4.4-5.6,6.8 .9-.3z"/>
<path color="#f90" d="M128.8,395.9l-.9-4.5-5.7,2.1 .9-.3zM137.7,395.2l-.9-4.1-5.6,2.5 .9,7.4z"/>
<path color="#fa0" d="M132.4,397.2l-1.8,.3-1.8-1.6-5.7-2.7 1.8,4.7 1.9,4.1zM139.6,401.3l-1.9-6.1-5.6,5.8 1.9,3.5zM143.8,398.5l-.6-7.5-5.6,9.6 .7,6.6z"/>
<path color="#fc0" d="M142.3,396.3l-.9,5.3-1.8-.3-5.6,3.2 1.8,4.6 .9-4.2zM154.3,401.5l-1.8,3.8-5.6,4.7 1.9,1.7zM166.6,409l-.9-6.1-5.6,1.7 1,9z"/>
<path color="#fe0" d="M144.5,406l-.7-7.5-5.5,8.7 .6,6.5zM147.8,407.9l-.9-3.9-.9,4.7-5.6,5.4 .9-6.2 1,7.3zM156.2,408.4l-1.9-6.9-5.5,10.2 1.8,5.2z"/>
<path color="#df0" d="M146,408.7l-.9,4.7-.6-7.4-5.6,7.7 .7,6.5 .8-6.1zM150.6,408l-1.8,3.8-1-3.9-5.5,7.3 .9,7.4 1.9-5.1zM159,414.2l-.9-5.1-5.6,6.8 1,5.4zM169.5,416.6l-1.9-1.5-5.6,7.6 2-4.2z"/>
<path color="#ef0" d="M158.1,409.1l-1.9-.7-5.6,8.5 1.9-1zM167.6,415.1l-1-6.1-5.5,4.6 .9,9.1zM172.4,417.9l-.9-5.7-2,4.4-5.5,1.9 1.9-1.3 1,5.5z"/>
<path color="#be0" d="M173.3,423.5l-.9-5.6-5.5,4.8 .9,5.4zM185.1,425.7l-2,0-5.5,4.7 2-2.9z"/>
<path color="#8e0" d="M179.1,432l-1.9-8.6-2,4-1.9-3.9-5.5,4.6 1.9,7.7 2-4.8 1.9,7.1z"/>
<path color="#9e0" d="M186,432.5l-.9-6.8-5.5,1.8 1,5.5z"/>
<path color="#6e0" d="M186.9,439.3l-.9-6.8-5.4,.5 .9,5.5zM195,437.5l-2-2.8-2.1,4.4-5.4,3.9 2.1-4.6 1.9,4.2z"/>
<path color="#4e0" d="M190.9,439.1l-2,1.1-2-.9-5.4-.8 2,4.6 2-.1zM195.9,442.6l-.9-5.1-5.5,5.1 1,6z"/>
<path color="#0e2" d="M196.9,447.7l-1-5.1-5.4,6 .9,5.9z"/>
<path color="#0e7" d="M200.8,453.8l-1.9-4.5-2-1.6-5.5,6.8 2,1.8 2,.9z"/>
<path color="#0ed" d="M206.8,462.7l-1.9-7.1-2.1,3.3-2-5.1-5.4,3.4 2,4.2 2.1-3.5 2,4.5z"/>
<path color="#0cf" d="M208.9,462.7l-2.1,0-5.3-.3 2,2.9z"/>
<path color="#09f" d="M210.8,469l-1.9-6.3-5.4,2.6 2,6.8z"/>
<path color="#05f" d="M212.8,473.2l-2-4.2-5.3,3.1 2,4.4z"/>
<path color="#02f" d="M214.8,477.4l-2-4.2-5.3,3.3 2,3.7z"/>
<path color="#00f" d="M216.8,482.4l-2-5-5.3,2.8 2,4.9z"/>
<path color="#50e" d="M218.7,492l-1.9-9.6-5.3,2.7 1.9,9.5z"/>
<path color="#70a" d="M220.6,500.1l-1.9-8.1-5.3,2.6 1.9,8.1z"/>
<path color="#708" d="M233.1,506l-2.1-.6-2.1-.7-2.1-.7-2.1-.7-2.1-.8-2-2.4-5.3,2.6 2.1,2.4 2.1,.7 2.1,.7 2.1,.7 2.1,.8 2.2,.6z"/>
<path fill="none" stroke="#8c8c8c" stroke-width=".4" stroke-opacity=".7" d="M218.1,470.1L207.5,476.5M198.4,431L187.6,438.4M178.8,419L167.8,428.1M159.8,391.5L148.8,411.7M141.4,387.8L130.2,386.1M123.7,383L112.3,377.6"/>
<path fill="none" stroke="#4a4a3a" stroke-width=".45" stroke-opacity=".8" d="M228,508.6l-2.2-.6-2.1-.8-2.1-.7-2.1-.7-2.1-.7-2.1-2.4-1.9-8.1-1.9-9.5-2-4.9-2-3.7-2-4.4-2-6.8-2-2.9-2-4.5-2.1,3.5-2-4.2-2-.9-2-1.8-1.9-11.9-1.9-4.2-2.1,4.6-2,.1-2-4.6-1.9-11-2,2.9-2,7-2,.7-1.9-7.1-2,4.8-1.9-7.7-1.9-10.9-1.9,1.3-2,4.2-1.9-18.1-1.9,10.6-1.9,14.1-1.9-2.5-1.9-10.9-1.9,1-1.8-5.2-1.9-1.7-1.8,7.5-1.9,5.1-1.9-14.7-1.7,12.3-2-19.6-1.8,8.5-1.8-4.6-1.9-3.5-1.9-14.9-1.7,14.9-1.7,1-1.9-4.1-1.8-4.7-1.8,.6-2-20-1.6,10-1.9-4.1-1.7,3-1.8-5.1-1.5,14.8-1.8-5.2-1.9-8-1.8-4.6-1.7-.8-1.6,2.6-1.9-6.7-1.7-1.6-1.4,15.3-1.6,3.8"/>
<path color="#f00" d="M107.1,379.2l-1.8-4.6-1.7-.8-1.6,2.6-1.9-6.7-1.7-1.6-.7,7.6-.7,7.7-5.9-4 .8-3.1 .7-3.2 1.8,3 1.9,7.1 1.7-.4 1.6-3.1 1.8,3.5zM113.2,380.2l-.9-2.6-.7,7.4-5.9-1.9 .8-6.7 .9,5zM120,380.5l-.7-6.7-.8,5-5.7,10.9 .8-4.9 .7,4.3z"/>
<path color="#f20" d="M108.1,383.2l-1-4-5.7,4 1,5.1zM116.8,381.8l-1-2.1-1.7,3-.9-2.5-5.8,1.2 1,5 1.7-2.2 1,5.2z"/>
<path color="#f40" d="M118.5,378.8l-.8,5-.9-2-5.7,7.6 .9,5.1 .8-4.8zM120.6,387.1l-.6-6.6-5.7,8.6 .7,4.4zM131.2,393.6l-1-7.5-5.7,4.3 1,7.1z"/>
<path color="#f60" d="M121.3,393.8l-.7-6.7-5.6,6.4 .6,4.3z"/>
<path color="#f90" d="M124.9,397.9l-1.8-4.7-1.8,.6-5.7,4 1.8-1.1 1.8,4.6z"/>
<path color="#fc0" d="M128.5,401l-1.7,1-1.9-4.1-5.7,3.4 1.9,3.6 1.8,1.2zM133.1,402.8l-1-1.8-5.7,3.5 1,3.6z"/>
<path color="#fa0" d="M132.1,401l-.9-7.4-5.7,3.9 .9,7z"/>
<path color="#fe0" d="M134,404.5l-.9-1.7-5.7,5.3 .9,3.7zM138.6,410.4l-1-9.8-1.8,8.5-5.6,9.3 1.8-8.6 1,8.4zM147.8,410.9l-.9-.9-5.7,2.2 1,3.6zM161.1,413.6l-1-9-.9,5.3-5.7,11 1-3.7 1,5.2z"/>
<path color="#ef0" d="M135.8,409.1l-1.8-4.6-5.7,7.3 1.9,6.6zM142.3,415.2l-1-7.3-.9,6.2-5.6,5.5 .9-7 .9,7.1zM148.8,411.7l-1-.8-5.6,4.9 .9,3.7z"/>
<path color="#be0" d="M140.4,414.1l-.8,6.1-1-9.8-5.6,7.8 .9,8.3 .9-6.9zM151.6,416.4l-1,.5-.9-2.6-5.6,9.4 .9,4.2 1-3.8zM153.5,421.3l-1-5.4-5.6,4.4 1,5.9zM164,418.5l-2,4.2-5.6,4.8 2-1.2zM166.9,422.7l-1-5.5-5.6,8 1,3.7z"/>
<path color="#9e0" d="M145.1,417.5l-1.9,5.1-.9-7.4-5.7,4.5 1,7.2 1.8-3.3zM154.4,426.8l-.9-5.5-5.6,4.9 .9,5.8zM167.8,428.1l-.9-5.4-5.6,6.2 .9,3.8zM180.6,433l-1-5.5-1,1.5-5.6,5 1.1-5.2 .9,6.3z"/>
<path color="#df0" d="M149.7,414.3l-.9-2.6-5.7,7.8 1,4.2zM152.5,415.9l-.9,.5-5.6,7.7 .9-3.8zM162,422.7l-.9-9.1-5.6,8.8 .9,5.1zM165.9,417.2l-1.9,1.3-5.6,7.8 1.9-1.1z"/>
<path color="#6e0" d="M173.6,438.1l-1.9-7.1-2,4.8-1.9-7.7-5.6,4.6 2,5.9 1.9-2.8 2,4.6zM181.5,438.5l-.9-5.5-5.6,2.1 1,6.3zM189.5,442.6l-1.9-4.2-2.1,4.6-5.5,.8 2-4.3 2,5z"/>
<path color="#4e0" d="M185.5,443l-2,.1-2-4.6-5.5,2.9 1.9,5.5 2.1-3.1z"/>
<path color="#2e1" d="M190.5,448.6l-1-6-5.5,1.9 1,5.8z"/>
<path color="#0e2" d="M191.4,454.5l-.9-5.9-5.5,1.7 .9,5.8z"/>
<path color="#0ed" d="M195.4,457.2l-2-.9-1-.9-1-.9-5.5,1.6 1,3.4 1,3.4 2-.5z"/>
<path color="#0cf" d="M201.5,462.4l-2-4.5-2.1,3.5-2-4.2-5.5,5.2 2,3 2.2-4 1.9,5.8z"/>
<path color="#09f" d="M203.5,465.3l-2-2.9-5.5,4.8 2.1,1.6z"/>
<path color="#07f" d="M205.5,472.1l-2-6.8-5.4,3.5 2,5z"/>
<path color="#05f" d="M207.5,476.5l-2-4.4-5.4,1.7 2,4.9z"/>
<path color="#02f" d="M209.5,480.2l-2-3.7-5.4,2.2 2,4.1z"/>
<path color="#00f" d="M211.5,485.1l-2-4.9-5.4,2.6 2,5z"/>
<path color="#50e" d="M213.4,494.6l-1.9-9.5-5.4,2.7 2,9.2z"/>
<path color="#70a" d="M215.3,502.7l-1.9-8.1-5.3,2.4 1.9,8.2z"/>
<path color="#708" d="M228,508.6l-2.2-.6-2.1-.8-2.1-.7-2.1-.7-2.1-.7-2.1-2.4-5.3,2.5 2.1,2.5 2.1,.7 2.1,.8 2.1,.7 2.1,.7 2.2,.7z"/>
<path color="#f00" d="M94.4,376.1l-1.8-3-.7,3.2-.8,3.1-.7,3.7-6-2.1 .6-5.7 .9,1.5 .9,1.4 1.8,4.4zM107.4,381.4l-.9-5-.8,6.7-5.9-1.9 .7-6 1,7.4z"/>
<path color="#f20" d="M96.3,383.2l-1.9-7.1-5.8,6.5 1.9,7.4zM101.4,383.2l-1.8-3.5-1.6,3.1-5.8,9 1.6-6.8 1.8,2.2zM108.4,386.4l-1-5-5.9,1.2 1.1,7.5z"/>
<path color="#f40" d="M98,382.8l-1.7,.4-5.8,6.8 1.7,1.8zM102.4,388.3l-1-5.1-5.8,4 1,6.3zM111.1,389.4l-1-5.2-1.7,2.2-5.8,3.7 1.7-1.4 1,8.3z"/>
<path color="#f90" d="M112.8,389.7l-.8,4.8-.9-5.1-5.8,7.6 1.1,8.3 .8-4.7zM115.6,397.8l-.6-4.3-.7-4.4-5.7,8.8 .6,2 .6,1.9z"/>
<path color="#f60" d="M114.3,389.1l-.7-4.3-.8,4.9-5.6,10.9 .7-4.7 .7,2zM125.5,397.5l-1-7.1-.8,7.9-5.8,4.7 .8-8.2 1,6.6z"/>
<path color="#fa0" d="M119.2,401.3l-1.8-4.6-1.8,1.1-5.8,4 1.8-1.6 1.8,4.4zM126.4,404.5l-.9-7-5.8,3.9 1,6.6z"/>
<path color="#fc0" d="M121.1,404.9l-1.9-3.6-5.8,3.3 1.9,3.4z"/>
<path color="#fe0" d="M127.4,408.1l-1-3.6-5.7,3.5 .9,5.6z"/>
<path color="#ef0" d="M128.3,411.8l-.9-3.7-5.8,5.5 1,5.5zM142.2,415.8l-1-3.6-.9,5.7-5.7,4.2 .9-7.7 .9,6.5z"/>
<path color="#be0" d="M132,409.8l-1.8,8.6-1.9-6.6-5.7,7.3 1.9,8.6 1.8-8.6zM143.1,419.5l-.9-3.7-5.8,5.1 1,6.4zM155.5,422.4l-1-5.2-1,3.7-5.6,11.1 .9-2 1,1.2z"/>
<path color="#df0" d="M133,418.2l-1-8.4-5.7,9.3 1,6.9zM136.6,419.7l-.9-7.1-.9,7-5.7,5.5 .8-7.8 1,7z"/>
<path color="#8e0" d="M134.8,419.6l-.9,6.9-.9-8.3-5.7,7.8 .9,6.9 .9-7.8zM146,424.1l-1,3.8-.9-4.2-5.7,9.5 1,5.8 .9-7.1zM148.8,432l-.9-5.8-5.8,4.9 1,6.2zM162.2,432.7l-.9-3.8-5.7,6.3 .9,2z"/>
<path color="#9e0" d="M137.6,426.9l-1-7.2-5.7,4.6 1,7zM144.1,423.7l-1-4.2-5.7,7.8 1,5.9zM147.9,426.2l-1-5.9-.9,3.8-5.7,7.8 .9-7.1 .9,6.3zM161.3,428.9l-1-3.7-1.9,1.1-2,1.2-.9-5.1-5.7,8.8 .9,1.1 2,1.9 1.9-.9 1,1.9zM175,435.1l-.9-6.3-1.1,5.2-5.6,5.1 1-9 1,7.1z"/>
<path color="#6e0" d="M151.6,428.8l-.9,4.3-1.9-1.1-5.7,5.3 1.9-.4 1-1.4zM168.1,440.4l-2-4.6-1.9,2.8-2-5.9-5.7,4.5 2,4.3 1.9-.8 2,2zM176,441.4l-1-6.3-5.6,2.1 .9,7.2zM184,444.5l-2-5-2,4.3-5.6,.9 2-4.1 2,5.7z"/>
<path color="#2e1" d="M180,443.8l-2.1,3.1-1.9-5.5-5.7,3 2,6.3 2.1-6zM185,450.3l-1-5.8-5.6,1.8 1,5.7z"/>
<path color="#0e2" d="M185.9,456.1l-.9-5.8-5.6,1.7 1,5.7z"/>
<path color="#0ed" d="M186.9,459.5l-1-3.4-5.5,1.6 .9,6z"/>
<path color="#0cf" d="M196,467.2l-1.9-5.8-2.2,4-2-3-2,.5-1-3.4-5.6,4.2 1,5.9 2.1-1.9 2,1.9 2.1-4.7 2,7.1z"/>
<path color="#09f" d="M198.1,468.8l-2.1-1.6-5.5,4.8 2.1,.4z"/>
<path color="#07f" d="M200.1,473.8l-2-5-5.5,3.6 2,3.1z"/>
<path color="#05f" d="M202.1,478.7l-2-4.9-5.5,1.7 2,5.4z"/>
<path color="#02f" d="M204.1,482.8l-2-4.1-5.5,2.2 2.1,4.6z"/>
<path color="#00f" d="M206.1,487.8l-2-5-5.4,2.7 2,5.1z"/>
<path color="#50e" d="M208.1,497l-2-9.2-5.4,2.8 1.9,8.9z"/>
<path color="#70a" d="M210,505.2l-1.9-8.2-5.5,2.5 2,8.3z"/>
<path color="#708" d="M222.7,511.3l-2.2-.7-2.1-.7-2.1-.7-2.1-.8-2.1-.7-2.1-2.5-5.4,2.6 2.1,2.5 2.1,.8 2.1,.7 2.1,.8 2.2,.7 2.1,.7z"/>
<path fill="none" stroke="#8c8c8c" stroke-width=".4" stroke-opacity=".7" d="M207.5,476.5L196.6,480.9M187.6,438.4L176.4,440.6M167.8,428.1L156.5,437.2M148.8,411.7L137.4,427.3M130.2,386.1L118.7,394.8M112.3,377.6L100.5,375.2"/>
<path fill="none" stroke="#4a4a3a" stroke-width=".45" stroke-opacity=".8" d="M217.3,514l-2.1-.7-2.2-.7-2.1-.8-2.1-.7-2.1-.8-2.1-2.5-2-8.3-1.9-8.9-2-5.1-2.1-4.6-2-5.4-2-3.1-2.1-.4-2-7.1-2.1,4.7-2-1.9-2.1,1.9-1.9-11.9-2-11.4-2-5.7-2,4.1-2.1,6-2-6.3-1.9-14.3-2.1,17.8-1.9,2.1-2-7.3-2-2-1.9,.8-2-4.3-1.9-3.9-1.9,.9-2-1.9-1.9-2.3-1.9,4-1.9,2.9-1.9,.4-1.9-12.5-1.8,14.2-2-11.7-1.9-12.9-1.8,15.4-1.8,1.5-2-14-1.7,15.6-1.9-13.8-1.8,8.6-1.9-8.6-1.9-11.1-2-13.2-1.6,16.4-1.8-3.2-1.9-3.4-1.8-4.4-1.8,1.6-1.9-5.9-1.5,9.4-2.1-16.6-1.7,1.4-2.1-14.9-1.5,12-1.4,12.7-2-12.7-1.8-2.2-1.6,6.8-1.7-1.8-1.9-7.4-1.8-4.4-1.8-2.9-1.3,11.3"/>
<path color="#f00" d="M86.8,378.2l-1.8-2.9-.6,5.7-5.9,5.9 .7-5.4 1.8,5.3z"/>
<path color="#f20" d="M87.7,380.4l-.9-2.2-5.8,8.6 1,3.8zM101.5,382.6l-1-7.4-.7,6-5.8,12.5 .8-3.6 1,5.8z"/>
<path color="#f40" d="M88.6,382.6l-.9-2.2-5.7,10.2 .9,3.9z"/>
<path color="#f60" d="M90.5,390l-1.9-7.4-5.7,11.9 1.9,6.8zM96.6,393.5l-1-6.3-.9-1.1-.9-1.1-5.7,14.3 .8-3.4 .8-3.5 1,5.5zM104.3,388.7l-1.7,1.4-1.1-7.5-5.7,13.3 1,5.7 1.7-4.2z"/>
<path color="#f90" d="M93.8,385l-1.6,6.8-1.7-1.8-5.7,11.3 1.6-2.1 1.7,.1zM105.3,397l-1-8.3-5.8,8.7 1,7.9z"/>
<path color="#fa0" d="M98.3,393.6l-.7,6.3-1-6.4-5.9,4.4 1,5.4 .8-3zM119.7,401.4l-1-6.6-.8,8.2-5.8,10.4 .8-6.4 .9,1.3z"/>
<path color="#fc0" d="M106.4,405.3l-1.1-8.3-5.8,8.3 1.1,7.9zM113.4,404.6l-1.8-4.4-1.8,1.6-1.9-5.9-.7,4.7-5.8,9.9 .8-2.7 1.9,4.3 1.7-4.2 1.7-.8zM120.7,408l-1-6.6-5.9,6.9 1,1.3z"/>
<path color="#fe0" d="M116.2,409.6l-.9-1.6-1.9-3.4-5.9,2.5 1.9,3.3 .9,4.7zM121.6,413.6l-.9-5.6-5.9,1.6 1,6.8z"/>
<path color="#df0" d="M122.6,419.1l-1-5.5-5.8,2.8 1,6.7zM136.4,420.9l-.9-6.5-.9,7.7-5.8,2.9 .8-8.1 1,7.6z"/>
<path color="#9e0" d="M127.3,426l-1-6.9-1.8,8.6-1.9-8.6-5.8,4 1.9,6.1 1.7-5.5 1,5.1zM137.4,427.3l-1-6.4-5.8,3.6 1,7.5zM142.1,431.1l-.9-6.3-5.8,5.4 .9,4.1zM169.4,437.2l-1-7.1-5.8,6.4 1,6.5z"/>
<path color="#6e0" d="M128.2,432.9l-.9-6.9-5.9,2.8 1,5zM143.1,437.3l-1-6.2-5.8,3.2 1,4.1zM157.5,439.4l-1-2.2-5.7-1.5 .9,4.7zM170.3,444.4l-.9-7.2-5.8,5.8 1,6.5zM178.4,446.3l-2-5.7-2,4.1-5.8,2.7 2.1-3.4 2,5.7z"/>
<path color="#be0" d="M130.9,424.3l-1-7-5.8,7.8 1,3.1z"/>
<path color="#8e0" d="M138.4,433.2l-1-5.9-5.8,4.7 1,4.9zM156.5,437.2l-1.9-3.9-1.9,.9-2-1.9-1.9-2.3-1.9,4-5.8,3.6 1.9-3.6 1.9-.1 2,5.5 1.9-4.3 2,.6z"/>
<path color="#4e0" d="M162.4,442.7l-2-2-1.9,.8-1-2.1-5.8,1 1,4.7 2-2 2,2.6z"/>
<path color="#2e1" d="M164.4,450l-2-7.3-5.7,3 1.9,3.2zM179.4,452l-1-5.7-5.7,3.4 1,6.4z"/>
<path color="#0e7" d="M180.4,457.7l-1-5.7-5.7,4.1 1,6.4z"/>
<path color="#0ed" d="M181.3,463.7l-.9-6-5.7,4.8 .9,5.8z"/>
<path color="#09f" d="M186.4,469.6l-2-1.9-2.1,1.9-1-5.9-5.7,4.6 1,5.8 2.1-2.8 2.1-.8zM190.5,472l-2-7.1-5.7,5 2.1,5z"/>
<path color="#07f" d="M194.6,475.5l-2-3.1-2.1-.4-5.6,2.9 2,1.6 2.1,1.6z"/>
<path color="#05f" d="M196.6,480.9l-2-5.4-5.6,2.6 2,5z"/>
<path color="#02f" d="M198.7,485.5l-2.1-4.6-5.6,2.2 2.1,5.1z"/>
<path color="#00f" d="M200.7,490.6l-2-5.1-5.6,2.7 2,5.1z"/>
<path color="#50e" d="M202.6,499.5l-1.9-8.9-5.6,2.7 2,8.7z"/>
<path color="#70a" d="M204.6,507.8l-2-8.3-5.5,2.5 2,8.5z"/>
<path color="#708" d="M217.3,514l-2.1-.7-2.2-.7-2.1-.8-2.1-.7-2.1-.8-2.1-2.5-5.5,2.7 2.1,2.5 2.1,.8 2.1,.7 2.2,.8 2.1,.7 2.2,.8z"/>
<path color="#f40" d="M81,386.8l-1.8-5.3-.7,5.4-6,6.1 .7-5.2 1.9,7.6z"/>
<path color="#f60" d="M82,390.6l-1-3.8-5.9,8.6 1,5.5z"/>
<path color="#fa0" d="M82.9,394.5l-.9-3.9-5.9,10.3 1.1,5.5zM94,393.7l-.8,3.6-5.8,10.2 .9-1.1zM95.8,395.9l-1-5.8-5.7,15.1 1,4z"/>
<path color="#fe0" d="M88.1,399.3l-1.7-.1-1.6,2.1-1.9-6.8-5.7,11.9 1.8,6.3 1.5-6 1.9,7zM109.4,410.4l-1.9-3.3-1.7,.8-5.9,7.9 1.6-6.2 1.9,3.3zM114.8,409.6l-1-1.3-.9-1.3-5.8,12.3 .8-4 .9-4.1z"/>
<path color="#f90" d="M90.7,397.9l-1-5.5-.8,3.5-5.8,9.9 .6-8 1,4.5zM94.8,390.1l-.8,3.6-5.7,12.7 .8-1.2z"/>
<path color="#fc0" d="M93.2,397.3l-.7,3-.8,3-1-5.4-6,4.4 1,4.5 .8,.4 .9,.3zM99.5,405.3l-1-7.9-1.7,4.2-1-5.7-5.7,13.3 .9,4.1 1.6-7 1.1,7.4z"/>
<path color="#ef0" d="M100.6,413.2l-1.1-7.9-5.8,8.4 1,7.5zM110.3,415.1l-.9-4.7-6,2.5 1,7.8zM115.8,416.4l-1-6.8-6,1.6 1,8z"/>
<path color="#df0" d="M104.1,412.1l-1.9-4.3-.8,2.7-.8,2.7-5.9,8 .9-.7 .8-.7 1.8,2.7zM130.6,424.5l-1-7.6-.8,8.1-6,2.9 .8-8.5 1.1,8.7z"/>
<path color="#be0" d="M116.8,423.1l-1-6.7-6,2.8 1.1,7.9z"/>
<path color="#9e0" d="M121.4,428.8l-1-5.1-1.7,5.5-1.9-6.1-5.9,4 1.8,3.7 1.8-2.4 1,3.2zM131.6,432l-1-7.5-5.9,3.6 1,8.7zM150.8,435.7l-2-.6-5.9,2 2-2.9z"/>
<path color="#6e0" d="M123.3,429.5l-.9,4.3-1-5-5.9,2.8 .9,3.2 .9-.9zM132.6,436.9l-1-4.9-5.9,4.8 1,3.9zM137.3,438.4l-1-4.1-5.9,3.2 1,1.9zM148.8,435.1l-1.9,4.3-2-5.5-5.9,1.7 2,9.2 1.9-7.7zM163.6,443l-1-6.5-1,8-5.8,5.6 1-7.1 1,5.9z"/>
<path color="#8e0" d="M136.3,434.3l-.9-4.1-5.9,5.5 .9,1.8zM144.9,433.9l-1.9,.1-5.9,4 1.9-2.4zM151.7,440.4l-.9-4.7-5.9-1.5 1,7.3z"/>
<path color="#4e0" d="M141.1,437.6l-1.9,2.2-1.9-1.4-5.9,1 1.9,3.3 1.9-1.6zM158.6,448.9l-1.9-3.2-2-2.6-2,2-1-4.7-5.8,1.1 1,7.3 1.9-3.3 2,3.2 2-1zM164.6,449.5l-1-6.5-5.8,5.9 1,5.8zM168.6,447.4l-2,2-5.8-1.3 2,2.2zM172.7,449.7l-2-5.7-5.8,3.5 2,5.6z"/>
<path color="#2e1" d="M161.6,444.5l-1,8-2-3.6-5.8-1.2 2,9.4 1-7zM173.7,456.1l-1-6.4-5.8,3.4 1,7.1z"/>
<path color="#0e7" d="M174.7,462.5l-1-6.4-5.8,4.1 1,7.2z"/>
<path color="#0cf" d="M175.6,468.3l-.9-5.8-5.8,4.9 1,5.6z"/>
<path color="#07f" d="M178.7,471.3l-2.1,2.8-1-5.8-5.7,4.7 1,5.6 2-3.8zM189,478.1l-2.1-1.6-2-1.6-5.8,2.9 2.1,3 2.1,.1z"/>
<path color="#09f" d="M184.9,474.9l-2.1-5-2,.6-2.1,.8-5.8,3.5 2.1-3.3 2.1,3.6 2,2.7z"/>
<path color="#05f" d="M191,483.1l-2-5-5.7,2.8 2.1,4.4z"/>
<path color="#02f" d="M193.1,488.2l-2.1-5.1-5.6,2.2 2,5.7z"/>
<path color="#00f" d="M195.1,493.3l-2-5.1-5.7,2.8 2.1,5z"/>
<path color="#50e" d="M197.1,502l-2-8.7-5.6,2.7 2,8.6z"/>
<path color="#70a" d="M199.1,510.5l-2-8.5-5.6,2.6 2,8.6z"/>
<path color="#708" d="M211.9,516.8l-2.2-.8-2.1-.7-2.2-.8-2.1-.7-2.1-.8-2.1-2.5-5.6,2.7 2.1,2.5 2.1,.8 2.1,.8 2.2,.8 2.1,.7 2.2,.8z"/>
<path fill="none" stroke="#8c8c8c" stroke-width=".4" stroke-opacity=".7" d="M196.6,480.9L185.4,485.3M176.4,440.6L164.9,447.5M156.5,437.2L144.9,434.2M137.4,427.3L125.7,436.8M118.7,394.8L107.1,419.3M100.5,375.2L89.1,405.2"/>
<path fill="none" stroke="#4a4a3a" stroke-width=".45" stroke-opacity=".8" d="M206.3,519.6l-2.2-.8-2.1-.7-2.2-.8-2.1-.8-2.1-.8-2.1-2.5-2-8.6-2-8.6-2.1-5-2-5.7-2.1-4.4-2.1-.1-2.1-3-2-2.7-2.1-3.6-2.1,3.3-2,3.8-2-11.2-2-14.3-2-5.6-2.1,2.8-2-2.2-2,6.6-2-11.7-2,14.1-2-9.4-2,1-2-3.2-1.9,3.3-2-14.6-2,2.9-1.9,7.7-2-9.2-1.9,2.4-1.9,3.1-1.9,1.6-1.9-3.3-1.9-3.7-1.8,8.8-2-7.7-2.1-17.4-1.6,16.9-1.9-4.9-1.8,1.5-1.9,1.9-1.9-6.4-1.8,2.4-1.8-3.7-2.1-15.9-1.7,8.1-1.6,9.3-2.1-15.7-1.9-3.3-1.6,6.2-1.7,6.7-1.8-2.7-1.7,1.4-2.1-14.9-1.6,7-1.9-8.1-1.7,2.3-1.7-.7-2-9-1.3,15.9-1.9-7-1.5,6-1.8-6.3-2.1-11-1.9-7.6-1.3,10.3"/>
<path color="#f90" d="M75.1,395.4l-1.9-7.6-.7,5.2-5.9,7.9 .7-2.6 1.9,6.4z"/>
<path color="#fc0" d="M76.1,400.9l-1-5.5-5.9,9.3 .9,2.6zM85.7,406.8l-2-9-.6,8-6,6.5 .7-5.5 1.9,7.3z"/>
<path color="#fe0" d="M77.2,406.4l-1.1-5.5-6,6.4 1,2.6z"/>
<path color="#ef0" d="M78.1,409.6l-.9-3.2-6.1,3.5 .9,4.3zM91,413.3l-1.9-8.1-1.7,2.3-1.7-.7-6,7.3 1.8,4.2 1.7-1.8 1.9,5.6zM93.7,413.7l-1.1-7.4-.8,3.5-5.9,8.1 .7-4.3 1.1,6.7zM103.4,412.9l-1.9-3.3-1.6,6.2-6.1,4.6 1.7-3.3 1.9,2.2zM108.8,411.2l-1.7,8.1-6.1,2.6 1.8-.1z"/>
<path color="#df0" d="M82.4,413.7l-1.9-7-1.5,6-.9-3.1-6.1,4.6 1,4.4 1.6-4.1 1.8,3.3zM104.4,420.7l-1-7.8-6,6.4 1,6.6zM109.8,419.2l-1-8-6,10.6 1.1,7.5z"/>
<path color="#be0" d="M94.7,421.2l-1-7.5-6,6.6 1,6.6zM124.7,428.1l-1.1-8.7-.8,8.5-6,5.3 .9-6 1,5.4z"/>
<path color="#9e0" d="M106.3,424l-.8,4.6-1.1-7.9-6,5.2 1.1,6.6 .7-5.3zM110.9,427.1l-1.1-7.9-5.9,10.1 1,7.5zM115.5,431.6l-1-3.2-.9,1.2-6,2.5 .8-3.4 1,4.6z"/>
<path color="#8e0" d="M113.6,429.6l-.9,1.2-1.8-3.7-6,9.7 1.8-1.2 .9-3.5zM125.7,436.8l-1-8.7-6,4.5 1,5.3zM141,444.8l-2-9.2-1.9,2.4-6,4.5 1.9-4.8 2,4.2zM145.9,441.5l-1-7.3-6,1.6 1,7.8z"/>
<path color="#6e0" d="M119.2,432.1l-.9,.8-1.9,1.9-.9-3.2-6.1,1.7 1,4.6 1.9,3.9 .9-3.6zM131.4,439.4l-1.9-3.7-6,6.3 1.9,2.2z"/>
<path color="#4e0" d="M129.5,435.7l-1.8,8.8-2-7.7-6,1.1 2,8.5 1.8-4.4zM150.8,448.7l-2-3.2-1.9,3.3-1-7.3-6,2.1 1,7.8 2-1.3 2,3.1zM157.8,448.9l-1-5.9-1,7.1-6,1.9 1-2.7 1.1,4.6zM166.9,453.1l-2-5.6-2.1,2.8-2-2.2-5.9,3.6 2,.6 2-.4 2.1,5.2z"/>
<path color="#2e1" d="M155.8,450.1l-1,7-2-9.4-2,1-5.9,4.5 2,0 2,1.5 .9-2.7zM160.8,448.1l-2,6.6-1-5.8-5.9,5 1,4.5 2-6.7z"/>
<path color="#0e2" d="M167.9,460.2l-1-7.1-5.9,4 1,3.3z"/>
<path color="#0e7" d="M168.9,467.4l-1-7.2-5.9,.2 1,3.3z"/>
<path color="#0ed" d="M169.9,473l-1-5.6-5.9-3.7 1,6.1z"/>
<path color="#09f" d="M170.9,478.6l-1-5.6-5.9-3.2 1,6.2zM179.1,477.8l-2-2.7-2.1-3.6-2.1,3.3-5.8,1.1 2.1-2.5 2,3.4 2.1,.9z"/>
<path color="#07f" d="M183.3,480.9l-2.1-.1-2.1-3-5.8-.1 2.1,3.2 2.1,3.6z"/>
<path color="#05f" d="M185.4,485.3l-2.1-4.4-5.8,3.6 2.1,4.5z"/>
<path color="#02f" d="M187.4,491l-2-5.7-5.8,3.7 2,4.5z"/>
<path color="#00f" d="M189.5,496l-2.1-5-5.8,2.5 2.1,5.1z"/>
<path color="#50e" d="M191.5,504.6l-2-8.6-5.8,2.6 2,8.7z"/>
<path color="#70a" d="M193.5,513.2l-2-8.6-5.8,2.7 2.1,8.7z"/>
<path color="#708" d="M206.3,519.6l-2.2-.8-2.1-.7-2.2-.8-2.1-.8-2.1-.8-2.1-2.5-5.7,2.8 2.1,2.5 2.1,.8 2.1,.8 2.2,.8 2.2,.7 2.1,.8z"/>
<path color="#fc0" d="M67.3,398.3l-.7,2.6-.8,2.6-6.1,5.5 .8-.1 .9-.1z"/>
<path color="#fe0" d="M69.2,404.7l-1.9-6.4-5.9,10.5 1.8,5.4z"/>
<path color="#ef0" d="M71.1,409.9l-1-2.6-.9-2.6-6,9.5 .9-.5 .8-.4zM79.7,414.1l-1.9-7.3-.7,5.5-6.1,6.6 .8-2.9 1.8,5.4z"/>
<path color="#df0" d="M72,414.2l-.9-4.3-6.2,3.4 1,5.7zM97.4,419.3l-1.9-2.2-1.7,3.3-6.1,4.6 1.8-.3 1.8,1.1z"/>
<path color="#be0" d="M76.4,417.8l-1.8-3.3-1.6,4.1-1-4.4-6.1,4.8 1.1,5.6 1.6-2.2 1.6-.5zM81.5,418.3l-1.8-4.2-6.1,7.3 2,7.7zM87.7,420.3l-1.1-6.7-6,7.4 1,5.8zM98.4,425.9l-1-6.6-6.1,6.5 1,5.4zM102.8,421.8l-1.8,.1-.8,5.3-6.1,3.4 .8-6 1.9,7.9z"/>
<path color="#9e0" d="M85.9,417.9l-.8,4.2-1.9-5.6-1.7,1.8-5.9,10.8 1.7-1.2 1.8,3.2 .7-5zM88.7,426.9l-1-6.6-6.1,6.5 1,5.9zM103.9,429.3l-1.1-7.5-6,10.7 1.1,7zM109.4,433.3l-1-4.6-.8,3.4-6.2,2.6 .8-5.7 1.1,6zM118.7,432.6l-1-5.4-.9,6-6.1,5.5 .9-3.5 1,1.9z"/>
<path color="#8e0" d="M100.2,427.2l-.7,5.3-1.1-6.6-6.1,5.3 1,5.3 .8-5.9zM119.7,437.9l-1-5.3-6.1,4.5 1,1.9zM139.9,443.6l-1-7.8-2,6.1-1.9,0-2-4.2-6.1,2.2 2-.9 2,7.8 1.9-9.4 1,8.3z"/>
<path color="#4e0" d="M106.7,435.6l-1.8,1.2-1-7.5-6,10.2 1.1,7.1 1.6-6.2zM112.3,441.8l-1.9-3.9-6.1,3.1 2,9.7zM121.7,446.4l-2-8.5-6.1,1.1 2,9.2zM140.9,451.4l-1-7.8-6.1,2.1 1.1,8.3zM150.8,449.3l-1,2.7-6,1.9 1,1.8zM158.9,451.9l-2,.4-2-.6-6.1,3.6 2.1-.9 2,1.9z"/>
<path color="#6e0" d="M110.4,437.9l-1-4.6-6.1,1.7 1,6zM116.8,433.2l-.8,6-1.9-4.6-.9,3.6-6.1,6.1 .8-6.4 2,4.3 .8-3.5z"/>
<path color="#2e1" d="M144.9,453.2l-2-3.1-2,1.3-6,2.6 1.9,.8 2,3zM151.9,453.9l-1.1-4.6-6,6.4 1,3.2zM162,460.4l-1-3.3-2.1-5.2-6,4.4 2.1,4.8 1-.6z"/>
<path color="#0e2" d="M146.9,453.2l-2,0-6.1,4.6 2,1zM163,463.7l-1-3.3-6,.1 1-.6z"/>
<path color="#0e7" d="M164,469.8l-1-6.1-6-3.8 1.1,6.7z"/>
<path color="#0cf" d="M165,476l-1-6.2-5.9-3.2 1,6.8zM171.2,476.8l-2-3.4-2.1,2.5-5.9,1 2-1.6 2.1,3.3z"/>
<path color="#09f" d="M167.1,475.9l-2.1,.1-5.9-2.6 2.1,3.5zM175.4,480.9l-2.1-3.2-2.1-.9-5.9,1.8 2.1-1.1 2.1,3.6z"/>
<path color="#07f" d="M177.5,484.5l-2.1-3.6-5.9,.2 2.1,7z"/>
<path color="#05f" d="M179.6,489l-2.1-4.5-5.9,3.6 2,4.7z"/>
<path color="#02f" d="M181.6,493.5l-2-4.5-6,3.8 2.1,3.2z"/>
<path color="#00f" d="M183.7,498.6l-2.1-5.1-5.9,2.5 2.1,5.2z"/>
<path color="#50e" d="M185.7,507.3l-2-8.7-5.9,2.6 2.1,8.9z"/>
<path color="#70a" d="M187.8,516l-2.1-8.7-5.8,2.8 2,8.7z"/>
<path color="#708" d="M200.6,522.4l-2.1-.8-2.2-.7-2.2-.8-2.1-.8-2.1-.8-2.1-2.5-5.9,2.8 2.2,2.6 2.1,.8 2.2,.8 2.1,.8 2.2,.7 2.2,.8z"/>
<path fill="none" stroke="#8c8c8c" stroke-width=".4" stroke-opacity=".7" d="M185.4,485.3L173.6,492.8M164.9,447.5L152.9,456.3M144.9,434.2L132.8,437.4M125.7,436.8L113.6,439M107.1,419.3L94.9,424.6M89.1,405.2L77.3,427.9"/>
<path fill="none" stroke="#4a4a3a" stroke-width=".45" stroke-opacity=".8" d="M194.9,525.3l-2.2-.8-2.2-.7-2.1-.8-2.2-.8-2.1-.8-2.2-2.6-2-8.7-2.1-8.9-2.1-5.2-2.1-3.2-2-4.7-2.1-7-2.1-3.6-2.1,1.1-2.1-3.3-2,1.6-2.1-3.5-2.1-13.5-2,1.2-2.1-4.8-2-1.9-2.1,.9-2,6.9-2-6.5-2-3.6-2,6.7-2-1-2-3-1.9-.8-2.1-16.6-1.9,9.4-2-7.8-2,.9-1.8,7.1-1.9,6.6-2.1-14-1.7,9.4-1.9-.5-1.9-.3-2-9.2-2-3.8-1.7,7-2-4.3-1.6,12.8-2-9.7-2.1-12-1.6,11.4-1.6,6.2-2.2-14.1-1.9-7.9-1.6,11.9-2-10.7-1.8-1.1-1.8,.3-1.4,13-1.9-5-1.8-.3-2-11.7-1.5,10.1-1.8-3.2-1.7,1.2-2-7.7-1.8-5.4-1.6,5.9-1.6,.5-1.6,2.2-2.1-11.3-1.7,.9-1.8-5.4-1.7,.2"/>
<path color="#ef0" d="M61.4,408.8l-.9,.1-.8,.1-6.3,1.8 .9,3.5 1,3.5z"/>
<path color="#df0" d="M65.9,419l-1-5.7-1.7,.9-1.8-5.4-6.1,9 1.7,1.1 1.5-4.6 1.1,5.7z"/>
<path color="#9e0" d="M70.2,421.9l-1.6,.5-1.6,2.2-1.1-5.6-6.3,1 1,5.6 1.8,1.7 1.5-3.3zM75.6,429.1l-2-7.7-6.2,5.2 1.9,4.7zM92.3,431.2l-1-5.4-6.2,5.6 1,4.7zM96.8,432.5l-1.9-7.9-.8,6-6.1,7 .8-3.1 1.8,1.2z"/>
<path color="#be0" d="M73.6,421.4l-1.8-5.4-1.6,5.9-6.3,2.1 1.7-1.2 1.8,3.8zM81.6,426.8l-1-5.8-6.3,3.2 1,5.5zM91.3,425.8l-1.8-1.1-1.8,.3-6.2,3.6 1.8,1 1.8,1.8z"/>
<path color="#8e0" d="M77.3,427.9l-1.7,1.2-6.3,2.2 1.9,3.9zM82.6,432.7l-1-5.9-6.3,2.9 1.1,5.6zM103.3,435l-1.1-6-.8,5.7-6.2,4.2 .9-2.2 1,3.3zM113.6,439l-2-3.8-6.1,8.1 1.9,0zM128.9,439l-1,.5-1,.4-6.2,2.6 1,3 1,3.1zM133.8,445.7l-1-8.3-6.2,8.5 1.1,6.2z"/>
<path color="#6e0" d="M94.1,430.6l-.8,5.9-1-5.3-6.2,4.9 1,4.7 .9-3.2zM97.9,439.5l-1.1-7-6.2,3.2 1.1,7.3zM104.3,441l-1-6-6.2,5 1,3.4zM122.2,446.6l-1.1-7-1.7,9.4-6.3-.5 1.8-6.3 1.1,5.1zM132.8,437.4l-1.9,9.4-2-7.8-6.2,9.6 2.1,5.2 1.8-7.9z"/>
<path color="#2e1" d="M106.3,450.7l-2-9.7-6.2,2.4 2,10zM136.8,454.8l-1.9-.8-6.2,4.3 2,.4zM148.8,455.3l-2,6.9-2-6.5-2-3.6-2,6.7-6.1,2.8 1.9-3.9 2.1-.4 2,3.4 2-6zM157,459.9l-2,1.2-2.1-4.8-6.1,5.4 2.1,4.2 2-4.6z"/>
<path color="#4e0" d="M109.9,442.2l-2-4.3-.8,6.4-6.1,5.3 .8-3.9 1.9,1.5zM115.6,448.2l-2-9.2-6.2,4.3 2,7.4zM134.9,454l-1.1-8.3-6.1,6.4 1,6.2zM152.9,456.3l-2-1.9-2.1,.9-6.1-.6 2,3.2 2.1,3.8z"/>
<path color="#0e2" d="M140.8,458.8l-2-1-2-3-6.1,3.9 2,5.6 2-2.7zM158.1,466.6l-1.1-6.7-6.1,1.4 1.1,7.2z"/>
<path color="#0ed" d="M159.1,473.4l-1-6.8-6.1,1.9 1,7.1z"/>
<path color="#0cf" d="M167.4,477.5l-2.1,1.1-2.1-3.3-2,1.6-2.1-3.5-6.1,2.2 2.1-1.2 2.1,1 2.1,4 2.1-.8z"/>
<path color="#09f" d="M169.5,481.1l-2.1-3.6-6,1.1 2,7.4z"/>
<path color="#07f" d="M171.6,488.1l-2.1-7-6.1,4.9 2.1,6.2z"/>
<path color="#02f" d="M173.6,492.8l-2-4.7-6.1,4.1 2.1,3.7z"/>
<path color="#00f" d="M177.8,501.2l-2.1-5.2-2.1-3.2-6,3.1 2.2,3.2 2.1,4.8z"/>
<path color="#50e" d="M179.9,510.1l-2.1-8.9-5.9,2.7 2,8.9z"/>
<path color="#70a" d="M181.9,518.8l-2-8.7-6,2.7 2.1,8.8z"/>
<path color="#708" d="M194.9,525.3l-2.2-.8-2.2-.7-2.1-.8-2.2-.8-2.1-.8-2.2-2.6-5.9,2.8 2.2,2.6 2.1,.9 2.2,.8 2.1,.8 2.2,.8 2.2,.8z"/>
<path color="#ef0" d="M54.3,414.3l-.9-3.5-6.5,1.8 1.1,7.2z"/>
<path color="#be0" d="M57,418.9l-1.7-1.1-1-3.5-6.3,5.5 1.2,7.2 1.5-3.4zM60.6,425.6l-1-5.6-6.5,1 1.1,5.6z"/>
<path color="#df0" d="M59.6,420l-1.1-5.7-1.5,4.6-6.3,4.7 1.3-8.2 1.1,5.6z"/>
<path color="#8e0" d="M62.4,427.3l-1.8-1.7-6.4,1 1.9,5.7zM69.3,431.3l-1.9-4.7-6.2,5.3 1.7,1.6zM76.4,435.3l-1.1-5.6-6.3,3 1,5.3zM86.1,436.1l-1-4.7-1.8-1.8-6.3,5 1.8,2.6 1,3.9zM121.7,445.5l-1-3-6.3,2.7 1.1,6.5z"/>
<path color="#9e0" d="M67.4,426.6l-1.8-3.8-1.7,1.2-1.5,3.3-6.3,5 1.4-6.2 1.9,3.6 1.8,2.2zM75.3,429.7l-1-5.5-.7,6.8-6.3,4.9 .6-8.5 1.1,5.3zM83.3,429.6l-1.8-1-6.4,3.7 1.9,2.3z"/>
<path color="#6e0" d="M71.2,435.2l-1.9-3.9-6.4,2.2 2.1,9zM78.1,435.5l-1.7-.2-6.4,2.7 1.8,.1zM91.7,443l-1.1-7.3-1.8-1.2-.8,3.1-6.3,7.2 .9-.3 1.7-5.6 1.1,7.5zM97.1,440l-1-3.3-.9,2.2-.8,2.3-6.4,.7 .9,1.3 1,1.3 .9,.7zM116,447.3l-1.1-5.1-1.8,6.3-6.4-.5 1.9-3.1 1,3.2z"/>
<path color="#4e0" d="M88,437.6l-.9,3.2-1-4.7-6.3,5 1,4 .9-.3zM98.1,443.4l-1-3.4-6.3,5.2 .9,.6zM109.4,450.7l-2-7.4-1.9,0-1.8,3.9-6.3,5.2 1.9-.8 1.8-3.8 2,5.5zM118.9,448.1l-1.9,4.3-1-5.1-6.4,.8 1,3.1 1.9-1.9zM122.7,448.6l-1-3.1-6.2,6.2 1,6.6zM127.7,452.1l-1.1-6.2-1.8,7.9-6.3,7.2 1.9-6.4 1,4zM144.7,457.9l-2-3.2-2,6-6.3-1.5 2-5.1 2.1,7.4z"/>
<path color="#2e1" d="M100.1,453.4l-2-10-6.4,2.4 2.1,10.3zM103.7,447.2l-1.9-1.5-.8,3.9-6.3,5.3 .9-1.3 1.8-1.2zM124.8,453.8l-2.1-5.2-6.2,9.7 2,2.7zM128.7,458.3l-1-6.2-6.3,6.5 1.1,4.1zM140.7,460.7l-2-3.4-2.1,.4-6.2,5.6 2-4.4 2,.3zM146.8,461.7l-2.1-3.8-6.2,3.6 2.1,5.7z"/>
<path color="#0e2" d="M130.7,458.7l-2-.4-6.2,4.4 1.9,0zM152,468.5l-1.1-7.2-2,4.6-2.1-4.2-6.2,5.5 2.1,3.6 2-8.1 1,7.6z"/>
<path color="#0e7" d="M134.7,461.6l-2,2.7-2-5.6-6.3,4 2.1,8.3 1.9-6.5z"/>
<path color="#0ed" d="M159.3,479.4l-2.1-4-2.1-1-2.1,1.2-1-7.1-6.3,1.8 1.1,7.6 2.1-6.1 2.1,3.7 2.1,4.7z"/>
<path color="#0cf" d="M161.4,478.6l-2.1,.8-6.2,.8 2.1-.4z"/>
<path color="#09f" d="M163.4,486l-2-7.4-6.2,1.2 2.1,11.1z"/>
<path color="#05f" d="M165.5,492.2l-2.1-6.2-6.1,4.9 2.1,5.4z"/>
<path color="#02f" d="M167.6,495.9l-2.1-3.7-6.1,4.1 2.1,2.8z"/>
<path color="#00f" d="M169.8,499.1l-2.2-3.2-6.1,3.2 2.2,3.2z"/>
<path color="#20f" d="M171.9,503.9l-2.1-4.8-6.1,3.2 2.1,4.3z"/>
<path color="#50e" d="M173.9,512.8l-2-8.9-6.1,2.7 2.1,9z"/>
<path color="#70a" d="M176,521.6l-2.1-8.8-6,2.8 2.1,9z"/>
<path color="#708" d="M189,528.3l-2.2-.8-2.2-.8-2.1-.8-2.2-.8-2.1-.9-2.2-2.6-6,3 2.1,2.6 2.2,.9 2.2,.8 2.1,.8 2.2,.8 2.2,.8z"/>
<path fill="none" stroke="#8c8c8c" stroke-width=".4" stroke-opacity=".7" d="M173.6,492.8L161.5,499.1M152.9,456.3L140.6,467.2M132.8,437.4L120.4,454.6M113.6,439L101.1,447.8M94.9,424.6L82.6,444.5M77.3,427.9L65,442.5"/>
<path fill="none" stroke="#4a4a3a" stroke-width=".45" stroke-opacity=".8" d="M183,531.3l-2.2-.8-2.2-.8-2.1-.8-2.2-.8-2.2-.9-2.1-2.6-2.1-9-2.1-9-2.1-4.3-2.2-3.2-2.1-2.8-2.1-5.4-2.1-11.1-2.1,.4-2.1-4.7-2.1-3.7-2.1,6.1-2.1-15.2-2,8.1-2.1-3.6-2.1-5.7-2.1-7.4-2,5.1-2-.3-2,4.4-2,1.2-1.9,6.5-2.1-8.3-1.9,0-2.1-8.1-1.9,6.4-2-2.7-2.1-13.1-1.9,4.1-1.9,1.9-2-6.3-1.9,3.1-1.7,6.6-1.9-1.3-2-5.5-1.8,3.8-1.9,.8-1.8,1.2-1.8,2.5-2.1-10.3-1.8-1.3-1.9-2.6-1.5,12.1-2.2-15.1-1.7,5.6-1.8,.6-2-7.9-1.8-2.6-1.9-2.3-1.5,9.6-1.8-3.8-1.8-.1-2.1-10.6-1.1,17-1.8-1.9-2.1-9-1.7-1.6-1.8-2.2-1.9-3.6-1.4,6.2-1.9-5.7-2.2-11.2-1.3,8.2-1.5,3.4-2.3-14.4"/>
<path color="#df0" d="M48,419.8l-1.1-7.2-4.1,8 1.1,5.3z"/>
<path color="#9e0" d="M49.2,427l-1.2-7.2-4.1,6.1 1,5.2zM51.4,419.5l-.7,4.1-4.2,6.3 .8-1zM53.6,423.8l-.5-2.8-4.1,7.9 .6,4.7zM68.4,430l-.5-2.6-.2,2.8-4.2,4.3 .1-4.5 .6,3.6z"/>
<path color="#8e0" d="M49.4,426.4l-.2,.6-4.3,4.1 .4,3zM54.2,426.6l-.6-2.8-4,9.8 .6,4.7zM55.1,429.5l-.3-1-.3-.9-4,9.1 .2-1.7 .2-1.7zM59.7,430l-.3-.3-.5-.9-.5-.9-.9-1.8-.7,3.1-4.1,8.1 .7-3.5 1,3 .3-2.1 .4-2.2 .4,3.8zM69.5,435.3l-.5-2.6-.6-2.7-4.2,3.6 .5,3.7 .5-.1zM75.6,432.9l-.5-.6-.7,4.8-4.3,3.2 .9-1.3 .5,3.2zM79.2,438.5l-.4-1.3-.3-.5-4.3,2.2 .2-3.1 .4,3.9z"/>
<path color="#be0" d="M53.1,421l-1.1-5.6-.6,4.1-4.1,9.4 .7-4.8 1,4.8z"/>
<path color="#6e0" d="M54.5,427.6l-.3-1-4,11.7 .3-1.6zM56.8,429.2l-.7,3.1-.5-1.4-.5-1.4-4.2,3.8 .5,3.2 .6,3.3 .7-2.5zM60.3,430.8l-.3-.4-.3-.4-4.2,6.3 .5,3.9 .4,3.8zM62.9,433.5l-.4-.4-.5-.4-.4-.4-.4-.4-.5-.6-4,11 .4-1.7 .3-2.5 .4-2.5 .5,2.8 .5,2.7zM70.9,438l-.5,0-.4,0-.5-2.7-4.3,1.9 .4-.1 .5,1.7 .5,1.8zM78.5,436.7l-.3-.4-.3-.4-.9-1.3-1-1.2-.4-.5-4.1,9.3 .5,3.1 .9-1.6 .9,1.6 .2-3.2 .2-3.2zM79.5,439.8l-.3-1.3-4.4,1.2 .5,4zM84.8,442.7l-.5-3.8-.5,1.4-4.1,6.1 .3-2.6 .5-.8zM110.1,449.6l-.5-1.5-1-3.2-.5,.8-.4,.8-4.3,4.5 .5-2.4 .4-2.4 1,2.3 .6,4.4zM114.4,445.2l-.9,2-4.2,6.6 1,.7z"/>
<path color="#4e0" d="M60.7,431.3l-.4-.5-3.9,13.2 .3-1.7zM74.4,437.1l-.8,4.8-.9-1.9-.5-.9-.4-1-.5,0-.4-.1-4.3,2.6 .6,3 .5,3.1 .4-1.7 .4-1.6 .8,.2 .8-3.3zM81.1,445l-.3,.1-.3-1.3-.3-1.3-.4-1.4-.3-1.3-4.2,3.9 .4,3.9 .2-1.5 .3-1.5 .2-1.5 .4,2.6zM85.4,446.4l-.6-3.7-4.3,.3 .4-.7zM91.7,445.8l-.9-.6-.9-.7-.5-.7-.5-.6-4,10.4 .3-2.9 .4-2.8 1,1.6 1,2.9zM110.6,451.2l-.5-1.6-4.2,3.3 .5,4.3zM115.5,451.7l-1.1-6.5-4.1,9.3 1,4.4zM138.5,461.5l-.5-1.8-.6-1.9-1-3.7-1,2.6-1,2.5-4.2,2.4 1,.2 1,1.8 1.1,.5 .4-1.6 .5-1.5z"/>
<path color="#2e1" d="M88.9,443.2l-.9-1.3-.3,2-.2,2.1-.3,2-.4,3-.3,3-1.1-7.6-4.5-4.1 1.1,5.2 .5,1.2 .4,1.3 .4,1.6 .3,1.6 .4,1.6 .9-1.2zM92.3,448.4l-.6-2.6-4.1,6.6 .6,4.8zM112.8,448.6l-.3,.7-.5,.4-.4,.5-1,1-4.2,6 1,1 .5,2.3 .6,2.2 .2-3zM116.5,458.3l-1-6.6-4.2,7.2 1,3zM121.1,457.3l-.4-1.4-.3-1.3-.9,3.2-4.2,5.3 .9-4.8 .3,3.5 .4,3.6zM134.4,459.2l-.5,0-.5-.1-.5-.1-.5-.1-.5,1.1-.5,1.1-4.2,5.6 .5-3.5 .4-3.4 .6,3.4 .5,3.5 .5-2.6 .5-2.5zM139,463l-.5-1.5-4.3-.5 .6,4.3z"/>
<path color="#0e2" d="M119.5,457.8l-1,3.2-1-1.4-1-1.3-4.2,3.6 1-.2 1,4 1-2.6zM121.4,458.6l-.3-1.3-4.2,8.1 .4,3.5zM128.8,464.3l-.4,.2-.5,1.6-.4,1.7-4.4-6.4 .6,2.2 .5,2.2 .4,2.7zM140.6,467.2l-1.1-2.8-.5-1.4-4.2,2.3 .5,4.3 1.1-.4zM145.7,470.3l-1-7.6-1,4.1-4.2,11.1 1-6.1 1.1,5.5z"/>
<path color="#0e7" d="M125.5,466.9l-1.1-4.2-.9,0-.5,0-.5,0-1.1-4.1-4.1,10.3 1,3.4 .5-2.4 .5-2.5 .9,.1 1.1,2.6zM143.7,466.8l-.5,2-.5,2-1.1-1.8-1-1.8-4.2,2 1,3.4 1.1,3.6 .5,.9 .5,.8z"/>
<path color="#0ed" d="M146.8,477.9l-1.1-7.6-4.1,7 1,2.9zM152.6,479l-.6-1.1-.5-1.2-.5-1.2-1.1-1.9-.5-.9-.5-.9-1.1,3.1-4.1,7.9 1-.2 .5-1.8 .5-1.9 1.1,1.5 .5-1.1 .5-1.2 .6,3.9z"/>
<path color="#0cf" d="M147.8,474.9l-.5,1.5-.5,1.5-4.2,2.3 .6,1.3 .5,1.3zM155.2,479.8l-.5,.1-.6,.1-.5,.1-.5,.1-.5-1.2-4.2,3 .5,3.8 .5-2 .5-2.1 .6,2.2 .5,2.2z"/>
<path color="#09f" d="M156.2,485.3l-1-5.5-4.2,6.3 1.1,1.7z"/>
<path color="#07f" d="M157.3,490.9l-1.1-5.6-4.1,2.5 1,4.5z"/>
<path color="#05f" d="M158.4,493.6l-.6-1.3-.5-1.4-4.2,1.4 .6,2.9 .5,2.9z"/>
<path color="#02f" d="M161.5,499.1l-1-1.4-1.1-1.4-1-2.7-4.2,4.5 1.1,2.8 1-2.1 1.1,2.5z"/>
<path color="#00f" d="M164.7,504.4l-1-2.1-1.1-1.6-1.1-1.6-4.1,2.2 1.1,1.4 1,2.5 1.1,1.9z"/>
<path color="#20f" d="M165.8,506.6l-1.1-2.2-4.1,2.7 1.1,1.8z"/>
<path color="#50e" d="M166.8,511.1l-1-4.5-4.1,2.3 1,4.3z"/>
<path color="#70d" d="M167.9,515.6l-1.1-4.5-4.1,2.1 1.1,4.6z"/>
<path color="#70c" d="M168.9,520.1l-1-4.5-4.1,2.2 1,4.7z"/>
<path color="#70a" d="M170,524.6l-1.1-4.5-4.1,2.4 1.1,4.1z"/>
<path color="#708" d="M183,531.3l-1.1-.4-1.1-.4-1.1-.4-1.1-.4-1.1-.4-1-.4-1.1-.4-1.1-.4-1.1-.5-1.1-.4-1-1.3-1.1-1.3-4.1,2 1.1,1.5 1,1.1 1.1,.5 1.1,.4 1.1,.4 1.1,.4 1.1,.4 1.1,.4 1.1,.4 1,.4 1.1,.4 1.1,.4z"/>
<path color="#9e0" d="M43.9,425.9l-1.1-5.3-4.1,8 1,3.4zM64.2,433.6l-.6-3.6-4.3,2.6 .6,4.7z"/>
<path color="#8e0" d="M44.9,431.1l-1-5.2-4.2,6.1 1,3.4zM49,428.9l-1-4.8-.7,4.8-4,9.5 .6-5.5 1,4zM74.8,439.7l-.4-3.9-.2,3.1-4.3,2.3 0-6.9 .6,6.7zM105.3,448.5l-1-2.3-4.3,1.3 1,1.5z"/>
<path color="#4e0" d="M45.3,434.1l-.4-3-4.2,4.3 .5,6.5zM51.4,436.5l-.5-3.2-.2,1.7-.2,1.7-4.1,9.1 .1-4.4 .1-4.3 .6,5.1zM54.7,434.7l-.3,2.1-1-3-.7,3.5-4.1,8 .7-3.8 1,4.3 .3-5.2zM58.3,438.4l-.5-2.8-.4,2.5-4.2,5.8 .3-5.4 .6,5.2zM67.2,443.6l-.6-3-4.3,2.6 .6,6.1zM71.5,442.2l-.5-3.2-.9,1.3-.8,3.3-.8-.2-4.3,3.4 .8-1.5 .8-1.7 1,2.2 .6,5.7zM82.5,448.7l-.5-1.2-4.6-6.7 .6,5.6zM97.1,450.5l-.4-3-4.3-.3 .4,5.1zM105.9,452.9l-.6-4.4-4.3,.5 .6,7.1z"/>
<path color="#2e1" d="M45.7,437.1l-.4-3-4.1,7.8 .6,6.5zM50.5,436.7l-.3,1.6-.6-4.7-4,9.9 .7,6.6 .1-4.3zM52.7,437.3l-.7,2.5-.6-3.3-4.2,5.7 .7,5 .7-1.9zM56,440.2l-.5-3.9-4.2,6.4 .6,7.3zM58.8,441.1l-.5-2.7-4.2,5.3 .6,5.1zM82.9,450l-.4-1.3-4.5-2.3 .6,5.6zM97.5,453.4l-.4-2.9-4.3,1.8 .4,5zM103.4,451l-.8,2.9-1,1.4-.5-.7-.4-.7-.3,2.9-4.3,2.4 .2-5.9 .5,3 .6,3.1 .9,.5 .9-4.4zM106.4,457.2l-.5-4.3-4.3,3.2 .6,7.1zM110.3,454.5l-1-.7-.3,3-4.2,8.9 .2-5.3 1.1,3.5zM123.7,463.6l-.6-2.2-.4,2.9-4.4-5.2 .4-4.1 .6,6zM128.7,463.2l-.6-3.4-.4,3.4-4.3,3.3 .4-5.8 .6,6.8zM134.8,465.3l-.6-4.3-4.3-.5 .6,7.2z"/>
<path color="#6e0" d="M47.3,428.9l-.8,1-.1,3.4-4,9.2 0-6.3 .9,2.2zM49.6,433.6l-.6-4.7-4.1,8 .7,6.6zM55.5,436.3l-.4-3.8-.4,2.2-4.1,5.9 .2-5.2 .5,7.3zM66.6,440.6l-.5-1.8-.5-1.7-.4,.1-.5,.1-.5-3.7-4.3,3.7 .6,4.6 .3-2.8 .4-2.9 .5,3.5 .6,3.5zM75.3,443.7l-.5-4-4.3,1.3 .5,6.6zM82,447.5l-1.1-5.2-.4,.7-4.4,.4 .3-5.3 1,2.7zM93.4,450.9l-.4-3.3-.9,1-4.5-4.6 .9-1.2 .5,6.8zM96.7,447.5l-.9,.6-4.4-1.7 1,.8z"/>
<path color="#0ed" d="M61.1,449l-.2,2.7-1-3.7-4,10.1 1,2.8 .1-5.6zM121.3,470.1l-1.1-2.6-.9-.1-.5,2.5-4.2,7.2 .4-5 1,.3 1,1zM138.5,476.2l-1.1-3.6-4.2,3.6 1,5.5zM141.6,477.3l-1.1-5.5-4.2,9.2 1.1,3.4zM148.4,482l-.6-3.9-.5,1.2-4.2,2.6 .5-3.6 .5,6.6z"/>
<path color="#0e7" d="M61.3,446.3l-.2,2.7-4.1,6.3 0-5.7zM83.6,453.2l-.3-1.6-4.2,5.7 .4,5.2zM107.9,460.5l-.5-2.3-4.2,8.1 .6,5zM109,456.8l-.3,2.9-4.1,11.3 .2-5.3zM115.3,463.1l-1,2.6-1-4-4.3,2.1 1.1,6.6 .9-1.9zM116.9,465.4l-.4-3.6-4.2,5.9 .4,5.8zM124.6,468.5l-.4-2.7-4.3,1.3 .4,5.6zM137.4,472.6l-1-3.4-1.1,.4-4.2,5.2 1-3.5 1.1,4.9z"/>
<path color="#0e2" d="M83.3,451.6l-.4-1.6-4.3,2 .5,5.3zM100.4,456.8l-.2,2.8-4.3,5.5 .2-5.9zM107.4,458.2l-1-1-4.2,6 1,3.1zM113.3,461.7l-1,.2-1-3-1-4.4-4.2,9.4 1,2.3 1-.6 .9-1.8zM116.5,461.8l-.3-3.5-.9,4.8-4.3,5.4 .9-6.5 .4,5.7zM124.2,465.8l-.5-2.2-4.4-2.6 .6,6.1zM129.7,464.1l-.5,2.6-.5-3.5-4.3,4.3 .6,6.8 .5-5.2zM133.3,464.1l-1.1-.5-1-1.8-4.3,5.2 1.1,6.2 1-2.8zM135.3,469.6l-.5-4.3-4.3,2.4 .6,7.1z"/>
<path color="#0cf" d="M90,461.7l-.3,2.5-4.1,8.2 .2-4.7zM140.5,471.8l-1,6.1-.5-.8-.5-.9-4.3,5.5 .6,3.7 .5,3.6 1-8zM143.2,481.5l-.6-1.3-1-2.9-4.2,7.1 1-2 .5,4.2zM147.3,479.3l-.5,1.1-1.1-1.5-.5,1.9-4.2,8.1 .5-4.6 1.1,1.2 .5-3.6zM150.5,483.9l-.6-2.2-.5,2.1-4.2,3.7 .5-4.1 .6,4.5z"/>
<path color="#09f" d="M145.2,480.8l-.5,1.8-1,.2-.5-1.3-4.3,5.1 .6,4.2 1,2.7 .5-4.6zM149.4,483.8l-.5,2-.5-3.8-4.3,2.9 .6,6.6 .5-4zM152.1,487.8l-1.1-1.7-.5-2.2-4.2,4 .5,4.6 1.1-2.3z"/>
<path color="#07f" d="M153.1,492.3l-1-4.5-4.2,2.4 1,3.5z"/>
<path color="#05f" d="M153.7,495.2l-.6-2.9-4.2,1.4 .6,4.4z"/>
<path color="#02f" d="M154.2,498.1l-.5-2.9-4.2,2.9 .5,4.4zM157.4,501.3l-1.1-2.5-1,2.1-4.2,4.5 1-5.5 1.1,3.7z"/>
<path color="#00f" d="M155.3,500.9l-1.1-2.8-4.2,4.4 1.1,2.9zM159.5,505.2l-1-2.5-1.1-1.4-4.2,2.3 1.1,1.1 1,3.5z"/>
<path color="#20f" d="M161.7,508.9l-1.1-1.8-1.1-1.9-4.2,3 1.1,1.5 1.1,1.5z"/>
<path color="#50e" d="M162.7,513.2l-1-4.3-4.2,2.3 1.1,4.1z"/>
<path color="#70d" d="M163.8,517.8l-1.1-4.6-4.1,2.1 1,4.7z"/>
<path color="#70c" d="M164.8,522.5l-1-4.7-4.2,2.2 1.1,4.8z"/>
<path color="#70a" d="M165.9,526.6l-1.1-4.1-4.1,2.3 1.1,3.9z"/>
<path color="#708" d="M178.9,533.3l-1.1-.4-1.1-.4-1-.4-1.1-.4-1.1-.4-1.1-.4-1.1-.4-1.1-.4-1.1-.4-1.1-.5-1-1.1-1.1-1.5-4.1,2.1 1,1.6 1.1,1 1.1,.4 1.1,.4 1.1,.5 1.1,.4 1,.4 1.1,.4 1.1,.4 1.1,.4 1.1,.4 1.1,.4z"/>
<path color="#6e0" d="M39.7,432l-1-3.4-4.1,8 .9,1.5zM60.5,441.9l-.6-4.6-4.3,3.7 .6,5.6zM72.4,446.5l-.4-5.5-.2,4.4-4.4,.8 0-7.3 .6,8.3zM91.4,446.4l-.1,7-4.4,1.6 0-10.2zM92.8,452.3l-.4-5.1-4.5-.3 .5,7.2zM100,447.5l-.4,4-4.4,3 .4-5.7zM119.3,461l-.6-6-4.5-6.6 .7,10z"/>
<path color="#4e0" d="M40.7,435.4l-1-3.4-4.2,6.1 .9,1.5zM44.9,436.9l-1-4-.6,5.5-4,9.5 .5-6.1 1,3.1zM51.3,442.7l-.5-7.3-.2,5.2-4.3,6 .1-8.3 .7,10.8zM54.1,443.7l-.6-5.2-4.4,3 .7,7.6zM59.2,438.8l0,6.2-4.3,6.1 0-7.9zM60.8,439.1l-.3,2.8-4.3,4.7 .2-5.6zM62.3,443.2l-.6-3.5-4.4,.8 .6,5.3zM65.8,443.6l-.8,1.7-4.4,1.8 .9-.2zM69.9,441.2l-.1,6.8-4.2,5.9-.1-10.5zM71,447.6l-.5-6.6-4.5,1.2 .7,9.3zM76.1,443.4l-.3,5.3-4.3,4.9 .1-9.9zM78.6,452l-.6-5.6-4.5-2.3 .7,10zM86.8,448.2l-.4,5.1-4.4-.5 .3-7.4zM96.8,456.3l-.5-3-4.5-.7 .7,5.4zM99.6,451.5l-.4,4-4.3,4.6 .3-5.6zM101.6,456.1l-.6-7.1-4.5,.5 .8,10zM118.3,459.1l-.5,4.1-4.4-4 .4-5.4zM130.5,467.7l-.6-7.2-.4,5-4.3,2.9 .4-8.5 .6,10.2z"/>
<path color="#2e1" d="M41.2,441.9l-.5-6.5-4.3,4.2 .7,10.1zM43.3,438.4l-.9-2.2 0,6.3-4.1,9.2-.1-9.2 1.1,5.4zM47.2,442.2l-.6-5.1-.1,4.3-4.2,6.6 0-7.1 .7,7zM53.5,438.5l-.3,5.4-4.2,5.9 .1-8.3zM57.8,449.7l-.7-5.8-4.5,.3 .8,8.4zM62.9,449.3l-.6-6.1-4.4,2.6 .8,9.1zM65,445.3l-.8,1.5-4.4,3.4 .8-3.1zM66.8,445.8l-1-2.2-4.3,3.3 1.1,5.7zM71.8,445.4l-.2,4.4-4.3,3.7 .1-7.3zM72.9,452l-.5-5.5-4.4,.7 .6,8.4zM74.5,451.4l-.6-5.1-.2,5.6-4.4,3.7 .2-8.4 .7,8.5zM89.5,456.4l-.5-6.8-4.5-1.3 .6,10.3zM93.2,457.3l-.4-5-4.4,1.8 .5,7.1zM96.3,453.3l-.2,5.9-4.3,2.5 0-9.1zM117.8,463.2l-.4,5.1-4.3-.3 .3-8.8zM119.9,467.1l-.6-6.1-4.4-2.6 .7,10zM124.4,467.5l-.6-6.8-.4,5.8-4.3,3.3 .4-8.2 .6,10.2z"/>
<path color="#0ed" d="M41.8,448.4l-.6-6.5-4.1,7.8 .8,10.1zM42.4,442.5l0,6.2-4,12-.1-9zM46.4,445.8l-.1,4.3-.7-6.6-4,9.9 .8,8.5-.1-6.9zM53,449.3l-.2,4-4,11 .1-6.2zM55.3,453.5l-.6-4.7-4.1,7.8 .6,5.8zM57,449.6l0,5.7-4.2,6.2-.1-8.6zM59.1,451.2l-.7,4.2-.6-5.7-4.4,2.9 .8,8.3 .8-2zM63.9,451l-.3,4.3-4.1,8.7 .2-6.9zM69.7,454.7l-.9-1.9-.8,4.5-.6-5.8-4.1,9.5 .7,8.3 .7-7.3 .9,2.2zM79.5,462.5l-.4-5.2-4.3,5.7 .6,8.9zM91.1,460.4l-.1,6.9-4.2,8 0-10.1zM103.2,466.3l-1-3.1-4.2,6.2 1,5zM107.1,466.2l-1-2.3-4.2,9.5 1,.1zM111,468.5l-.9,1.9-4.3,4.7 1-1.1zM117,473.4l-1-1-1-.3-4.3,4.7 1,.5 1-.7zM123,472.3l-1,2.1-4.3,5.7 1-2.1zM125.5,469.1l-.5,5.2-4.2,7.7 .4-7.8zM129,470.4l-1,2.8-4.2,9.7 1-6.1zM144.1,484.9l-.5-6.6-.5,3.6-4.3,2.6 .5-6 .6,9.4z"/>
<path color="#09f" d="M42.4,448.7l0,6.2-.6-6.5-3.9,11.4 .7,9.9-.2-9zM52.8,453.3l-.3,3.9-.6-7.2-4,9.8 .7,10.7 .2-6.2zM55.9,458.1l-.6-4.6-4.1,8.9 .7,5.8zM57,455.3l-.1,5.6-4.1,9.3 0-8.7zM80,467.8l-.5-5.3-4.1,9.4 .6,8.8zM113.2,479.2l-.5-5.7-4.2,8.2 .5,7.9zM134.8,485.4l-.6-3.7-4.2,5.5 .6,6.5zM138.9,486.6l-.5-4.2-1,2-1.1-3.4-4.2,9.2 1,1.3 1-6.8 .6,7.1zM142.6,485.5l-1.1-1.2-4.2,5.4 1,.8zM144.7,491.5l-.6-6.6-4.2,3 .6,9.3z"/>
<path color="#0e2" d="M45.6,443.5l-.7-6.6-4.1,8 .8,8.5zM46.5,441.4l-.1,4.4-4.1,9.2 0-7zM47.9,447.2l-.7-5-4.2,5.7 .7,6.9zM50.6,440.6l-.3,5.2-1-4.3-.7,3.8-4.1,8.1 .7-4.1 1.1,5.5 0-8.2zM54.7,448.8l-.6-5.1-4.3,5.4 .8,7.5zM57.1,443.9l-.1,5.7-4.3,3.3-.1-8.7zM64.2,446.8l-.3,4.2-4.2,6.1 .1-6.9zM67.4,451.5l-.6-5.7-4.2,6.8 .7,8.4zM71.6,449.8l-.1,4.3-.5-6.5-4.3,3.9 .6,9.2 0-7.2zM75.8,448.7l-.3,3.9-4.3,6.3 .3-5.3zM79.1,457.3l-.5-5.3-4.4,2.1 .6,8.9zM82.3,453.8l-1-2.4-.2,6.3-4.3,7 .2-9.8 1,3.4zM86.4,453.3l-.3,5-4.4,1.7 .3-7.2zM91.3,453.4l-.2,7-4.3,4.8 .1-10.2zM99.2,455.5l-.9,4.4-.9-.5-.6-3.1-4.3,1.7 .6,5.5 1,2.5 .8-5.9zM102.2,463.2l-.6-7.1-4.3,3.4 .7,9.9zM126.9,467l-1-3-.4,5.1-4.3,5.1 .4-7.8 1.1,5.9zM129.5,465.5l-.5,4.9-4.2,6.4 .4-8.4z"/>
<path color="#0e7" d="M48.6,445.3l-.7,1.9-4.2,7.6 .8-1.4zM51.9,450l-.6-7.3-4.2,6.4 .8,10.7zM53.2,443.9l-.2,5.4-4.1,8.8 .1-8.3zM59.2,445l-.1,6.2-4.1,7.7-.1-7.8zM63.6,455.3l-.7-6-4.2,5.6 .8,9.1zM69.8,448l-.1,6.7-4.1,9.5 0-10.3zM73.7,451.9l-.3,5.5-.5-5.4-4.3,3.6 .6,8.2 .1-8.2zM75.5,452.6l-.4,4-.6-5.2-4.3,4.3 .8,8.4 .2-5.2zM83.4,459l-1.1-5.2-4.3,4.5 1.2,7.4zM86.1,458.3l-.2,4.7-4.3,3.9 .1-6.9zM89.9,463.1l-.4-6.7-4.4,2.2 .6,10.2zM95.1,464.2l-.6-6.8-.8,4.9-.5-5-4.3,3.9 .5,7.1 .7-8.7 .8,10zM96.1,459.2l-.2,5.9-4.2,5.5 .1-8.9zM106.1,463.9l-1.1-3.5-.2,5.3-4.2,9 .2-7.7 1.1,6.4zM110.1,470.4l-1.1-6.6-.9,1.8-1,.6-4.2,7.3 .8-4.2 .9-3.3 1.2,9.1zM112.3,467.7l-.4-5.7-.9,6.5-4.2,5.5 .8-8.2 .5,7.9zM117.4,468.3l-.4,5.1-4.3,3.2 .4-8.6zM120.3,472.7l-.4-5.6-4.3,1.3 .4,8.5zM123.4,466.5l-.4,5.8-4.3,5.7 .4-8.2zM125,474.3l-.6-6.8-4.3,4.3 .7,10.2zM128,473.2l-1.1-6.2-4.2,5.3 1.1,10.6zM133.2,476.2l-1.1-4.9-1,3.5-.6-7.1-4.3,2.4 .6,10 1-6.8 1.1,6.6z"/>
<path color="#07f" d="M56.9,460.9l-1-2.8-4,10.1 .9,2zM80.8,464l-.8,3.8-4,12.9 .7-6.2zM84.7,473.2l-.7-7.1-4.1,9 .7,9.3zM85.8,467.7l-.2,4.7-4.2,8.2 .1-6.8zM104.6,471l-.2,5.2-.6-4.9-4.1,10.8 .6,7.7 .2-7.5zM114.6,477.1l-.4,4.9-4.2,9.8 .4-7.5zM121.6,479.1l-.5,4.6-.4-5.5-4.2,7.2 .4,8.4 .4-6.8zM136.3,481l-1,8-4.2,11.3 1-10.1zM139.5,490.8l-.6-4.2-4.2,5.2 .6,7zM141.5,484.3l-.5,4.6-4.2,8.2 .5-7.4zM145.2,487.5l-.5,4-4.2,5.7 .4-6zM148.9,493.7l-1-3.5-1.1,2.3-.5-4.6-4.3,4.1 .6,6.9 1-6.2 1.1,2.5z"/>
<path color="#8e0" d="M59.9,437.3l-.6-4.7-.1,6.2-4.3,4.4 0-7.9 .7,5.7zM61.7,439.7l-.5-3.5-.4,2.9-4.4,1.9 .2-5.7 .7,5.2zM69.9,434.3l0,6.9-4.4,2.2-.1-10.5zM76.4,438.1l-.3,5.3-4.5,.3 .2-9.9zM78,446.4l-.6-5.6-4.7-6.7 .8,10zM87.6,444l-.8,4.2-4.5-2.8 .7-6zM89,449.6l-.5-6.8-4.6-4.8 .6,10.3zM92.4,447.2l-1-.8-4.5-1.6 1,2.1zM101,449l-1-1.5-4.4,1.3 .9,.7zM118.7,455l-.4,4.1-4.5-5.3 .4-5.4z"/>
<path color="#9e0" d="M70.5,441l-.6-6.7-4.5-1.4 .6,9.3zM77.4,440.8l-1-2.7-4.6-4.3 .9,.3zM88.5,442.8l-.9,1.2-4.6-4.6 .9-1.4z"/>
<path color="#0cf" d="M81.1,457.7l-.3,6.3-4.1,10.5 .1-9.8zM84,466.1l-.6-7.1-4.2,6.7 .7,9.4zM85.9,463l-.1,4.7-4.3,6.1 .1-6.9zM91,467.3l-1.1-4.2-4.2,5.7 1.1,6.5zM95.9,465.1l-.2,5.9-.6-6.8-4.2,5.4 .7,10 .1-9zM103.8,471.3l-.6-5-4.2,8.1 .7,7.7zM104.8,465.7l-.2,5.3-4.1,11.3 .1-7.6zM112.7,473.5l-.4-5.8-4.2,6 .4,8zM115,472.1l-.4,5-4.2,7.2 .3-7.5zM120.7,478.2l-.4-5.5-4.3,4.2 .5,8.5zM122,474.4l-.4,4.7-4.3,7.9 .4-6.9zM134.2,481.7l-1-5.5-4.3,3.7 1.1,7.3zM143.1,481.9l-.5,3.6-4.3,5 .5-6zM146.3,487.9l-.6-4.5-.5,4.1-4.3,3.7 .5-6.1 .6,6.9z"/>
<path color="#05f" d="M85.6,472.4l-.9,.8-4.1,11.2 .8-3.8zM114.2,482l-1-2.8-4.2,10.4 1,2.2zM135.3,489l-.5-3.6-4.2,8.3 .5,6.6zM141,488.9l-.5,4.6-4.2,10.9 .5-7.3zM149.5,498.1l-.6-4.4-4.2,1.5 .5,5.9z"/>
<path color="#02f" d="M140.5,493.5l-1-2.7-4.2,8 1,5.6zM150,502.5l-.5-4.4-4.3,3 .6,5.9zM153.2,503.6l-1.1-3.7-4.2,1.1 1.1,4.8z"/>
<path color="#00f" d="M152.1,499.9l-1,5.5-1.1-2.9-4.2,4.5 1,3.1 1.1-9.1zM155.3,508.2l-1-3.5-1.1-1.1-4.2,2.2 1,.9 1.1,4.5z"/>
<path color="#20f" d="M157.5,511.2l-1.1-1.5-1.1-1.5-4.2,3 1.1,1.2 1.1,1.1z"/>
<path color="#50e" d="M158.6,515.3l-1.1-4.1-4.2,2.3 1,4z"/>
<path color="#70d" d="M159.6,520l-1-4.7-4.3,2.2 1.1,4.8z"/>
<path color="#70c" d="M160.7,524.8l-1.1-4.8-4.2,2.3 1.1,4.9z"/>
<path color="#70a" d="M161.8,528.7l-1.1-3.9-4.2,2.4 1.1,3.6z"/>
<path color="#708" d="M174.8,535.4l-1.1-.4-1.1-.4-1.1-.4-1.1-.4-1.1-.4-1-.4-1.1-.4-1.1-.5-1.1-.4-1.1-.4-1.1-1-1-1.6-4.2,2.1 1.1,1.8 1,.7 1.1,.5 1.1,.4 1.1,.4 1.1,.5 1.1,.4 1.1,.4 1.1,.4 1.1,.4 1.1,.4 1.1,.4z"/>
<path fill="none" stroke="#8c8c8c" stroke-width=".4" stroke-opacity=".7" d="M161.5,499.1L149,505.8M140.6,467.2L127.8,473.3M120.4,454.6L107.6,465.8M101.1,447.8L87.9,446.9M82.6,444.5L69.5,447.2M65,442.5L52.8,470.2"/>
<path fill="none" stroke="#858585" stroke-width=".55" d="M170.7,537.5l-1.1-.4-1.1-.4-1.1-.4-1.1-.4-1.1-.4-1.1-.4-1.1-.5-1.1-.4-1.1-.4-1.1-.5-1-.7-1.1-1.8-1.1-3.6-1.1-4.9-1.1-4.8-1-4-1.1-1.1-1.1-1.2-1.1-4.5-1-.9-1.1-4.8-1.1,9.1-1-3.1-1.1-11.8-1.1-2.5-1,6.2-1.2-13.8-.9,12.1-1.2-18.7-1,12-1-.8-1,14.7-1-5.6-1.2-14.1-1,6.8-1-1.3-1,10.1-1.1-13.1-1.1-7.3-1.1-6.6-1,6.8-1.2-20.2-.8,16.9-1,6.1-1.1-10.6-1.1-5.9-.8,15.6-1.3-20.4-.8,16.4-1,2.1-.8,13.7-1.3-25.4-1.4-20-.8,10.8-.7,17.4-1,.7-1-.5-.7,15-1-2.2-1.4-23.8-.8,8.2-1,1.1-1.2-9.1-.9,3.3-.8,4.2-1-.1-1.1-6.4-.5,22.8-1.3-15.4-1-5-1.5-19.9-.9-.7-.7,11.3-.8,5.9-1-2.5-1.3-10.9-.2,27-1.5-20-.7,8.7-1.5-21.4-1-2.1-.1,30.5-1.1-6.5-1.8-30.8-.9,1.4-.7,6-.6,14.6-.3,20.6-.8,3.8-1.4-18.7-1.2-7.4-1-3.4-.3,19.6-.7,6.2-1.8-26.6-1.5-20-.9-.3-.3,19.8-.5,10.5-1.5-16.9-.3,16.6-1.8-24.9-.1,21.8-1.9-27.8 .2,31.3-.9-2.2-.7,7.3-1.4-16.7-1.1-5.7-.9,.2-.8,3.1-.3,13.8-1.6-18.2-1.3-10.5-.4,11.3-1.3-11.3 .1,23.6-.8,2-1.6-16.7 .2,26-.9-2-1.3-11.6-1.5-15.1-.2,16.6-.3,12.4-2.2-32.2-.1,16.5-1.1-5.5-.7,4.1-.8,1.4-1.4-13.9 .1,21-1.6-17-1-3.1-.5,6.1-1.1-5.4 .4,27.2-2.2-30.1-.9-1.5-.9-1.5"/>
</g>
<path d="M37.4,496.5L29.8,332.8M170.7,543.1L37.4,496.5M170.7,543.1L275.7,489.3" stroke="#1a1a1a" stroke-width=".85" fill="none"/>
<g style="font-family:'Liberation Serif',serif;font-weight:bold;font-size:10.3px" text-anchor="end">
<text transform="matrix(.988,-.15,.04,1,32.0,496.6)">0</text>
<text transform="matrix(.988,-.15,.04,1,31.1,476.9)">20</text>
<text transform="matrix(.988,-.15,.04,1,30.1,456.9)">40</text>
<text transform="matrix(.988,-.15,.04,1,29.2,436.6)">60</text>
<text transform="matrix(.988,-.15,.04,1,28.3,416.0)">80</text>
<text transform="matrix(.988,-.15,.04,1,27.3,395.1)">100</text>
<text transform="matrix(.988,-.15,.04,1,26.3,373.8)">120</text>
<text transform="matrix(.988,-.15,.04,1,25.3,352.2)">140</text>
</g>
<text transform="translate(4.4,423.2) scale(.86,1) rotate(90)" text-anchor="middle" style="font-family:'Liberation Serif',serif;font-weight:bold;font-size:11.9px">Fy(eV/Å)</text>
<text transform="matrix(0.923,-0.384,1.133,0.396,158.5,543.5)" text-anchor="end" style="font-family:'Liberation Serif',serif;font-weight:bold;font-size:9.8px">20000</text>
<text transform="matrix(0.923,-0.384,1.133,0.396,137.4,536.2)" text-anchor="end" style="font-family:'Liberation Serif',serif;font-weight:bold;font-size:9.8px">40000</text>
<text transform="matrix(0.923,-0.384,1.133,0.396,117.2,529.1)" text-anchor="end" style="font-family:'Liberation Serif',serif;font-weight:bold;font-size:9.8px">60000</text>
<text transform="matrix(0.923,-0.384,1.133,0.396,97.8,522.3)" text-anchor="end" style="font-family:'Liberation Serif',serif;font-weight:bold;font-size:9.8px">80000</text>
<text transform="matrix(0.923,-0.384,1.133,0.396,79.3,515.9)" text-anchor="end" style="font-family:'Liberation Serif',serif;font-weight:bold;font-size:9.8px">100000</text>
<text transform="matrix(0.923,-0.384,1.133,0.396,61.5,509.6)" text-anchor="end" style="font-family:'Liberation Serif',serif;font-weight:bold;font-size:9.8px">120000</text>
<text transform="matrix(0.923,-0.384,1.133,0.396,44.4,503.7)" text-anchor="end" style="font-family:'Liberation Serif',serif;font-weight:bold;font-size:9.8px">140000</text>
<text transform="matrix(0.960,0.280,0.250,0.680,176.2,547.4)" text-anchor="start" style="font-family:'Liberation Serif',serif;font-weight:bold;font-size:9.6px">0</text>
<text transform="matrix(0.960,0.280,0.250,0.680,200.3,535.0)" text-anchor="start" style="font-family:'Liberation Serif',serif;font-weight:bold;font-size:9.6px">5</text>
<text transform="matrix(0.960,0.280,0.250,0.680,222.7,523.5)" text-anchor="start" style="font-family:'Liberation Serif',serif;font-weight:bold;font-size:9.6px">10</text>
<text transform="matrix(0.960,0.280,0.250,0.680,243.6,512.9)" text-anchor="start" style="font-family:'Liberation Serif',serif;font-weight:bold;font-size:9.6px">15</text>
<text transform="matrix(0.960,0.280,0.250,0.680,263.0,502.9)" text-anchor="start" style="font-family:'Liberation Serif',serif;font-weight:bold;font-size:9.6px">20</text>
<text transform="matrix(0.960,0.280,0.250,0.680,281.3,493.6)" text-anchor="start" style="font-family:'Liberation Serif',serif;font-weight:bold;font-size:9.6px">25</text>
<path d="M37.2,492.6l-3.6,0.6M36.3,472.9l-3.6,0.6M35.3,452.9l-3.6,0.6M34.4,432.6l-3.6,0.6M33.5,412.0l-3.6,0.6M32.5,391.1l-3.6,0.6M31.5,369.8l-3.6,0.6M30.5,348.2l-3.6,0.6M159.7,539.3l-3.2,1.6M138.6,531.9l-3.2,1.6M118.4,524.8l-3.2,1.6M99.1,518.1l-3.2,1.6M80.5,511.6l-3.2,1.6M62.7,505.4l-3.2,1.6M45.7,499.4l-3.2,1.6M170.7,543.1l3.4,1.2M194.8,530.7l3.4,1.2M217.2,519.2l3.4,1.2M238.1,508.6l3.4,1.2M257.5,498.6l3.4,1.2M275.7,489.3l3.4,1.2" stroke="#111" stroke-width=".8" fill="none"/>
<text transform="matrix(0.944,0.330,-1.068,0.547,53.7,536.8)" text-anchor="middle" style="font-family:'Liberation Serif',serif;font-weight:bold;font-size:10.5px">Steps</text>
<text transform="matrix(0.819,-0.419,1.133,0.396,254.8,523.3)" text-anchor="middle" style="font-family:'Liberation Serif',serif;font-weight:bold;font-size:10.0px">Cutting angle(°)</text>
<linearGradient id="gb" x1="0" y1="0" x2="0" y2="1"><stop offset="0.000" stop-color="#300040"/><stop offset="0.012" stop-color="#580068"/><stop offset="0.040" stop-color="#8000a0"/><stop offset="0.100" stop-color="#7000e8"/><stop offset="0.155" stop-color="#0000ff"/><stop offset="0.215" stop-color="#0070ff"/><stop offset="0.275" stop-color="#00e8ff"/><stop offset="0.325" stop-color="#00e810"/><stop offset="0.400" stop-color="#78e800"/><stop offset="0.500" stop-color="#ffff00"/><stop offset="0.575" stop-color="#ff9000"/><stop offset="0.645" stop-color="#ff0800"/><stop offset="0.780" stop-color="#ff0000"/><stop offset="0.900" stop-color="#a80000"/><stop offset="1.000" stop-color="#600000"/></linearGradient>
<rect x="293.7" y="322.8" width="20.0" height="151.8" fill="url(#gb)"/>
<rect x="293.7" y="322.8" width="20.0" height="1" fill="#000"/>
<g style="font-family:'Liberation Serif',serif;font-weight:bold;font-size:8.7px">
<text x="317.2" y="327.4">-2.500</text>
<text x="317.2" y="342.5">13.15</text>
<text x="317.2" y="357.6">28.80</text>
<text x="317.2" y="372.8">44.45</text>
<text x="317.2" y="387.9">60.10</text>
<text x="317.2" y="403.0">75.75</text>
<text x="317.2" y="418.1">91.40</text>
<text x="317.2" y="433.2">107.1</text>
<text x="317.2" y="448.4">122.7</text>
<text x="317.2" y="463.5">138.4</text>
<text x="317.2" y="478.6">154.0</text>
</g>
<g stroke="#000" stroke-opacity=".8" stroke-width=".5" stroke-linejoin="round">
<path fill="#0000ff" d="M376.2,524.6L377.9,524.6L379.6,524.6L381.3,524.6L383,524.6L384.7,524.6L386.5,524.6L388.2,524.6L389.9,524.6L391.6,524.6L393.3,524.6L395,524.6L396.7,524.6L398.4,524.6L400.1,524.6L401.8,524.6L403.2,524.6L402.9,504.7L402.8,484.8L402.7,464.9L402.6,445L402.6,425.1L402.5,405.1L402.4,385.2L402,365.3L402.1,345.4L402.2,325.5L401.8,325.5L400.1,325.5L398.4,325.5L396.7,325.5L395,325.5L393.3,325.5L391.6,325.5L389.9,325.5L388.2,325.5L386.5,325.5L384.7,325.5L383,325.5L381.3,325.5L379.6,325.5L377.9,325.5L376.2,325.5L376.2,345.4L376.2,365.3L376.2,385.2L376.2,405.1L376.2,425.1L376.2,445L376.2,464.9L376.2,484.8L376.2,504.7z"/>
<path fill="#0080ff" d="M403.2,524.6L403.5,524.6L405.3,524.6L407,524.6L408.7,524.6L410.4,524.6L412.1,524.6L413.8,524.6L415.5,524.6L417.2,524.6L418.9,524.6L420,524.6L419.6,504.7L420.4,484.8L420.6,481.5L422.4,466.1L424,484.8L424.1,487.8L425.8,496.4L427,484.8L427.4,464.9L427.5,464.1L428.6,445L427.5,428.1L426.5,425.1L425.8,418.7L425.7,425.1L424.9,445L424.1,454.2L422.4,453.5L422.2,445L420.6,428.3L418.9,428.2L417.8,425.1L417.5,405.1L417.2,404.6L415.7,385.2L415.5,381.9L414,385.2L413.8,385.6L412.1,389.2L411.4,385.2L410.4,378.2L409,365.3L408.7,361L408,345.4L407.6,325.5L407,325.5L405.3,325.5L403.5,325.5L402.2,325.5L402.1,345.4L402,365.3L402.4,385.2L402.5,405.1L402.6,425.1L402.6,445L402.7,464.9L402.8,484.8L402.9,504.7zM423.5,524.6L424.1,524.6L425.3,524.6L424.1,513.1zM430.8,524.6L430.9,524.6L432.6,524.6L434.3,524.6L435.1,524.6L434.3,513.1L432.6,520.6L430.9,524.3zM439,524.6L439.4,524.6L439.8,524.6L439.4,521.8zM472.7,524.6L473.6,524.6L475.3,524.6L476.2,524.6L475.3,516.9L473.6,517.1zM516.1,524.6L516.4,524.6L518.1,524.6L518.2,524.6L518.1,522.1L516.4,520.7zM526.2,524.6L526.6,524.6L528,524.6L526.6,520.9zM575.9,524.6L576.2,524.6L577.9,524.6L579.6,524.6L581.3,524.6L583,524.6L583.5,524.6L583,517.8L581.3,508.9L579.6,510.5L577.9,511.6L576.2,520.7zM597.2,524.6L598.4,524.6L599.2,524.6L598.4,516.9zM430.8,484.8L430.9,485.4L432.6,486.6L433.1,484.8L434.3,480.4L435.5,464.9L434.8,445L434.3,437.6L432.6,439.5L430.9,438L429.9,445L429.6,464.9zM419.5,405.1L420.6,420.6L421.8,405.1L420.6,398z"/>
<path fill="#00ffff" d="M420,524.6L420.6,524.6L422.4,524.6L423.5,524.6L424.1,513.1L425.3,524.6L425.8,524.6L427.5,524.6L429.2,524.6L430.8,524.6L430.9,524.3L432.6,520.6L434.3,513.1L435.1,524.6L436,524.6L437.7,524.6L439,524.6L439.4,521.8L439.8,524.6L441.2,524.6L442.9,524.6L444.6,524.6L446.3,524.6L448,524.6L449.7,524.6L450.5,524.6L449.7,511.1L449.4,504.7L449.1,484.8L448.8,464.9L449.7,459.3L451.4,463.9L451.5,464.9L451.4,467.8L450.1,484.8L451.4,492.6L453.1,495.7L454.1,504.7L454.8,511.4L456.2,504.7L456.5,502.8L456.8,504.7L458.2,515.9L458.7,524.6L460,524.6L461.7,524.6L463.4,524.6L465.1,524.6L466.8,524.6L468.5,524.6L470.2,524.6L471.9,524.6L472.7,524.6L473.6,517.1L475.3,516.9L476.2,524.6L477,524.6L478.8,524.6L480.5,524.6L482.2,524.6L483.9,524.6L485.6,524.6L487.3,524.6L489,524.6L490.7,524.6L492.4,524.6L494.1,524.6L495.9,524.6L496.6,524.6L497.6,512L498.2,504.7L497.6,489.6L497.4,484.8L496.1,464.9L495.9,463.2L495.4,464.9L494.1,468.6L492.4,481.3L492.2,484.8L492.4,495.3L492.7,504.7L492.4,506.9L490.7,518.5L489,511.3L487.6,504.7L487.3,502.7L485.6,495.5L483.9,484.8L485.6,466.5L487.3,465.2L487.3,464.9L487.3,464.5L485.6,462.1L483.9,458.2L483.4,464.9L483.4,484.8L482.2,486L481.3,484.8L480.5,483.3L480.4,484.8L478.8,501L477,488.7L476.7,484.8L477,479.1L477.5,464.9L477,448.1L476.7,445L475.4,425.1L475.3,424.3L475.2,425.1L473.8,445L473.6,446.4L472.9,445L471.9,443.6L471.3,445L470.2,454.6L469.8,445L469.1,425.1L468.5,420.5L466.8,405.1L466.8,404.2L466.7,405.1L465.1,415L464.1,425.1L463.4,430.1L461.7,436.9L461,445L460,464.9L460,465.9L458.2,476L456.5,467.3L456.4,464.9L456,445L454.8,428.2L454.7,425.1L454.8,423.5L456.5,412.7L456.7,405.1L456.5,401.8L454.8,399L453.1,389L451.4,400.7L451,405.1L449.7,415.5L448,407.6L447.2,425.1L446.3,439.2L445.8,445L444.9,464.9L444.6,469L442.9,469.1L442.3,464.9L441.6,445L441.6,425.1L441.2,421.7L439.9,405.1L439.7,385.2L441.2,365.9L441.3,365.3L441.2,364.2L439.4,358.8L439.4,365.3L438.2,385.2L437.7,387.4L436,394.9L435.4,385.2L434.5,365.3L434.3,345.4L434.8,325.5L434.3,325.5L432.6,325.5L430.9,325.5L430.2,325.5L429.2,339L427.5,345.2L425.8,343.3L424.1,328.2L422.4,326.3L421.8,325.5L420.6,325.5L418.9,325.5L417.2,325.5L415.5,325.5L413.8,325.5L412.1,325.5L410.4,325.5L408.7,325.5L407.6,325.5L408,345.4L408.7,361L409,365.3L410.4,378.2L411.4,385.2L412.1,389.2L413.8,385.6L414,385.2L415.5,381.9L415.7,385.2L417.2,404.6L417.5,405.1L417.8,425.1L418.9,428.2L420.6,428.3L422.2,445L422.4,453.5L424.1,454.2L424.9,445L425.7,425.1L425.8,418.7L426.5,425.1L427.5,428.1L428.6,445L427.5,464.1L427.4,464.9L427,484.8L425.8,496.4L424.1,487.8L424,484.8L422.4,466.1L420.6,481.5L420.4,484.8L419.6,504.7zM430.9,485.4L430.8,484.8L429.6,464.9L429.9,445L430.9,438L432.6,439.5L434.3,437.6L434.8,445L435.5,464.9L434.3,480.4L433.1,484.8L432.6,486.6zM463.4,486.5L462.9,484.8L463.4,483.3L463.5,484.8zM420.6,420.6L419.5,405.1L420.6,398L421.8,405.1zM500.3,524.6L501,524.6L502.7,524.6L504.4,524.6L506.1,524.6L507.8,524.6L509.5,524.6L511.2,524.6L511.9,524.6L512.9,505.5L514.7,520.9L514.7,524.6L516.1,524.6L516.4,520.7L518.1,522.1L518.2,524.6L519.6,524.6L519.8,517.2L521.5,519.5L522,524.6L523.2,524.6L524.9,524.6L526.2,524.6L526.6,520.9L528,524.6L528.3,524.6L530,524.6L531.7,524.6L533.2,524.6L533.5,515.4L533.5,524.6L535.2,524.6L536.9,524.6L538.6,524.6L540.3,524.6L541.2,524.6L542,507.2L542.4,504.7L542.3,484.8L542,483.8L540.3,472.7L538.9,464.9L539,445L538.6,441.2L537.5,445L538,464.9L536.9,475.3L536.3,484.8L536.9,503.3L536.9,504.7L536.9,504.9L535.2,504.8L534.9,504.7L533.5,503.5L531.7,493.8L530.6,484.8L530,464.9L530.2,445L530,442L529.4,445L528.3,450.4L527.3,464.9L526.6,470.2L524.9,472.1L524,484.8L523.2,489.6L522.7,484.8L521.8,464.9L521.5,462.8L520.7,464.9L519.8,484.5L519.8,484.8L518.1,491.5L516.4,495.2L514.7,500.8L512.9,503L511.6,484.8L511.8,464.9L511.4,445L511.2,444.1L509.5,439.8L507.8,442.1L507.6,445L507.2,464.9L506.1,474.9L504.4,483.4L502.7,466.6L502.4,464.9L502.7,460.7L502.9,445L502.7,440.1L501,439.7L499.3,442.6L497.6,443.2L497.3,445L497.6,449.8L498.4,464.9L499.3,470.8L500.6,484.8L501,504.3L501.1,504.7L501,504.9zM544.4,524.6L545.4,524.6L547.1,524.6L548.8,524.6L550.4,524.6L550.5,521.5L550.8,524.6L552.3,524.6L553.5,524.6L554,507.4L554.1,504.7L554,503.6L552.6,484.8L552.3,470.2L550.5,476.4L550.2,484.8L548.8,500.6L547.1,499.9L545.4,498.2L544.4,504.7zM554.7,524.6L555.7,524.6L557.4,524.6L559.1,524.6L560.8,524.6L561.6,524.6L562.5,522.6L564.2,521L565.9,505.5L566.1,524.6L567.6,524.6L569.3,524.6L571.1,524.6L572.8,524.6L574.5,524.6L575.9,524.6L576.2,520.7L577.9,511.6L579.6,510.5L581.3,508.9L583,517.8L583.5,524.6L584.7,524.6L586.1,524.6L586.4,504.7L585.7,484.8L584.7,477.1L583,480.3L581.3,478.6L579.6,467.6L577.9,474.8L576.5,484.8L576.2,487.8L574.7,504.7L574.5,508.1L572.8,505.6L572.7,504.7L572.5,484.8L571.1,469.1L569.3,470.1L567.6,475.1L565.9,478.1L564.2,470.9L562.5,466.3L561.4,484.8L561.3,504.7L560.8,521.1L559.1,507.2L557.4,509.4L555.7,518.5zM586.6,524.6L588.2,524.6L589.9,524.6L591.6,524.6L593.3,524.6L595,524.6L596.7,524.6L597.2,524.6L598.4,516.9L599.2,524.6L600.1,524.6L601.8,524.6L603.5,524.6L605.2,524.6L607,524.6L608.7,524.6L610.4,524.6L612.1,524.6L613.8,524.6L615.1,524.6L615,504.7L614.2,484.8L613.8,483.1L613.3,484.8L612.1,490.5L611.1,484.8L610.4,482.4L608.7,484.3L608.2,484.8L607.3,504.7L607,508.5L605.2,511.5L604.6,504.7L604.7,484.8L603.5,473.7L601.9,464.9L601.8,464.8L601.8,464.9L600.1,477.5L598.4,475.8L597.2,464.9L596.7,462.7L595.5,464.9L595,468.9L594.3,484.8L593.3,498.2L591.6,494.1L590.8,484.8L589.9,477.1L588.2,483.1L587.9,484.8L586.5,504.7zM442.6,345.4L442.9,349.3L444.6,356.5L445.9,345.4L446.3,341.1L448,326.6L448.1,325.5L448,325.5L446.3,325.5L444.6,325.5L442.9,325.5L441.2,325.5L441.1,325.5L441.2,325.7zM558.9,325.5L559.1,328.6L559.3,325.5L559.1,325.5z"/>
<path fill="#00ff80" d="M449.4,504.7L449.7,511.1L450.5,524.6L451.4,524.6L453.1,524.6L454.8,524.6L456.5,524.6L458.2,524.6L458.7,524.6L458.2,515.9L456.8,504.7L456.5,502.8L456.2,504.7L454.8,511.4L454.1,504.7L453.1,495.7L451.4,492.6L450.1,484.8L451.4,467.8L451.5,464.9L451.4,463.9L449.7,459.3L448.8,464.9L449.1,484.8zM487.6,504.7L489,511.3L490.7,518.5L492.4,506.9L492.7,504.7L492.4,495.3L492.2,484.8L492.4,481.3L494.1,468.6L495.4,464.9L495.9,463.2L496.1,464.9L497.4,484.8L497.6,489.6L498.2,504.7L497.6,512L496.6,524.6L497.6,524.6L499.3,524.6L500.3,524.6L501,504.9L501.1,504.7L501,504.3L500.6,484.8L499.3,470.8L498.4,464.9L497.6,449.8L497.3,445L497.6,443.2L499.3,442.6L501,439.7L502.7,440.1L502.9,445L502.7,460.7L502.4,464.9L502.7,466.6L504.4,483.4L506.1,474.9L507.2,464.9L507.6,445L507.8,442.1L509.5,439.8L511.2,444.1L511.4,445L511.8,464.9L511.6,484.8L512.9,503L514.7,500.8L516.4,495.2L518.1,491.5L519.8,484.8L519.8,484.5L520.7,464.9L521.5,462.8L521.8,464.9L522.7,484.8L523.2,489.6L524,484.8L524.9,472.1L526.6,470.2L527.3,464.9L528.3,450.4L529.4,445L530,442L530.2,445L530,464.9L530.6,484.8L531.7,493.8L533.5,503.5L534.9,504.7L535.2,504.8L536.9,504.9L536.9,504.7L536.9,503.3L536.3,484.8L536.9,475.3L538,464.9L537.5,445L538.6,441.2L539,445L538.9,464.9L540.3,472.7L542,483.8L542.3,484.8L542.4,504.7L542,507.2L541.2,524.6L542,524.6L543.7,524.6L544.4,524.6L544.4,504.7L545.4,498.2L547.1,499.9L548.8,500.6L550.2,484.8L550.5,476.4L552.3,470.2L552.6,484.8L554,503.6L554.1,504.7L554,507.4L553.5,524.6L554,524.6L554.7,524.6L555.7,518.5L557.4,509.4L559.1,507.2L560.8,521.1L561.3,504.7L561.4,484.8L562.5,466.3L564.2,470.9L565.9,478.1L567.6,475.1L569.3,470.1L571.1,469.1L572.5,484.8L572.7,504.7L572.8,505.6L574.5,508.1L574.7,504.7L576.2,487.8L576.5,484.8L577.9,474.8L579.6,467.6L581.3,478.6L583,480.3L584.7,477.1L585.7,484.8L586.4,504.7L586.1,524.6L586.4,524.6L586.6,524.6L586.5,504.7L587.9,484.8L588.2,483.1L589.9,477.1L590.8,484.8L591.6,494.1L593.3,498.2L594.3,484.8L595,468.9L595.5,464.9L596.7,462.7L597.2,464.9L598.4,475.8L600.1,477.5L601.8,464.9L601.8,464.8L601.9,464.9L603.5,473.7L604.7,484.8L604.6,504.7L605.2,511.5L607,508.5L607.3,504.7L608.2,484.8L608.7,484.3L610.4,482.4L611.1,484.8L612.1,490.5L613.3,484.8L613.8,483.1L614.2,484.8L615,504.7L615.1,524.6L615.5,524.6L615.5,504.7L615.5,484.8L615.5,464.9L615.5,445L615.5,425.1L615.5,422.5L615.1,425.1L615.2,445L613.8,458.4L612.9,464.9L612.1,467.2L610.4,467.1L609.7,464.9L608.7,458.4L607,447.5L605.2,449.1L603.5,453.3L601.9,445L601.8,444L600.1,438.5L598.4,443.7L598,445L596.7,447.4L595,450.4L593.3,457L591.6,463.5L590.8,445L589.9,435.4L588.2,435.6L586.4,444.8L586.4,445L584.7,453.3L583,463.2L581.3,460.7L579.6,454.3L577.9,451.8L576.2,456.5L574.5,458.8L573,445L572.8,442L571.1,441.1L569.3,444.9L569.3,445L567.6,451.5L565.9,449.1L564.2,445.2L564.2,445L562.5,432.9L561,445L560.8,447.2L560.6,445L559.8,425.1L559.1,416.9L558.3,425.1L557.6,445L557.4,463.1L555.7,460.7L554.4,445L554,425.9L553.9,425.1L552.3,417.9L551.5,425.1L550.5,433.9L549.5,445L548.8,450.6L547.1,459.9L545.9,464.9L545.4,468L543.7,466.6L542.6,464.9L543.3,445L542.2,425.1L542,421.9L541.4,425.1L540.3,427.6L539.8,425L538.6,419.8L536.9,422.5L536.1,425.1L535.2,427.1L533.5,435.5L531.9,425.1L531.7,423.7L530.1,405.1L530,404.8L529.9,405.1L528.3,415.5L527.1,425.1L526.6,430.5L524.9,425.5L524.9,425.1L523.2,409.4L521.5,415.1L519.8,413.8L518.1,411.8L516.5,425L516.4,431.1L516.3,425.1L514.7,418.8L512.9,423.1L511.2,424.2L509.5,416.5L507.9,405.1L507.8,403.3L507.7,405.1L506.1,418.3L504.4,418.4L503.4,405.1L503.3,385.2L502.7,378L502.1,385.2L501,396.2L499.3,398.1L497.8,405.1L497.6,406.4L495.9,423.2L495.3,425.1L494.1,429.5L492.4,433.7L490.7,425.2L490.7,425.1L489,410.4L487.8,405.1L487.3,402.8L485.6,390.4L483.9,391.7L483,405.1L482.2,421.3L480.5,415L479.8,405.1L478.8,390.8L477,389.6L476.6,385.2L475.3,376.8L473.6,376.3L472.6,385.2L471.9,395.9L470.2,400.5L469.3,385.2L468.5,366.3L468.5,365.3L468.5,364.4L470,365.3L470.2,365.4L470.2,365.3L470.2,359.6L470.2,345.4L469.5,325.5L468.5,325.5L466.8,325.5L465.1,325.5L464.7,325.5L463.4,343.8L463.2,345.4L461.7,353.9L460,349.7L458.2,354.8L456.5,352.3L455.6,345.4L454.8,336.8L453.1,329.1L453,325.5L451.4,325.5L449.7,325.5L448.1,325.5L448,326.6L446.3,341.1L445.9,345.4L444.6,356.5L442.9,349.3L442.6,345.4L441.2,325.7L441.1,325.5L439.4,325.5L437.7,325.5L436,325.5L434.8,325.5L434.3,345.4L434.5,365.3L435.4,385.2L436,394.9L437.7,387.4L438.2,385.2L439.4,365.3L439.4,358.8L441.2,364.2L441.3,365.3L441.2,365.9L439.7,385.2L439.9,405.1L441.2,421.7L441.6,425.1L441.6,445L442.3,464.9L442.9,469.1L444.6,469L444.9,464.9L445.8,445L446.3,439.2L447.2,425.1L448,407.6L449.7,415.5L451,405.1L451.4,400.7L453.1,389L454.8,399L456.5,401.8L456.7,405.1L456.5,412.7L454.8,423.5L454.7,425.1L454.8,428.2L456,445L456.4,464.9L456.5,467.3L458.2,476L460,465.9L460,464.9L461,445L461.7,436.9L463.4,430.1L464.1,425.1L465.1,415L466.7,405.1L466.8,404.2L466.8,405.1L468.5,420.5L469.1,425.1L469.8,445L470.2,454.6L471.3,445L471.9,443.6L472.9,445L473.6,446.4L473.8,445L475.2,425.1L475.3,424.3L475.4,425.1L476.7,445L477,448.1L477.5,464.9L477,479.1L476.7,484.8L477,488.7L478.8,501L480.4,484.8L480.5,483.3L481.3,484.8L482.2,486L483.4,484.8L483.4,464.9L483.9,458.2L485.6,462.1L487.3,464.5L487.3,464.9L487.3,465.2L485.6,466.5L483.9,484.8L485.6,495.5L487.3,502.7zM511.9,524.6L512.9,524.6L514.7,524.6L514.7,520.9L512.9,505.5zM519.6,524.6L519.8,524.6L521.5,524.6L522,524.6L521.5,519.5L519.8,517.2zM533.2,524.6L533.5,524.6L533.5,515.4zM550.4,524.6L550.5,524.6L550.8,524.6L550.5,521.5zM561.6,524.6L562.5,524.6L564.2,524.6L565.9,524.6L566.1,524.6L565.9,505.5L564.2,521L562.5,522.6zM462.9,484.8L463.4,486.5L463.5,484.8L463.4,483.3zM560.8,405.1L560.8,405.6L560.8,405.1L560.8,404.8zM489.9,385.2L490.7,395.3L492.1,385.2L490.7,376.7zM516.1,385.2L516.4,393.2L516.8,385.2L516.4,381.3zM540.1,385.2L540.3,391.7L542,386.6L542,385.2L542.2,365.3L542,362.4L541.7,365.3L540.3,383.4zM480.2,365.3L480.5,372.2L482.2,372.2L482.7,365.3L482.2,359.4L480.5,361.5zM521,365.3L521.5,376.2L522.3,365.3L521.5,362.6zM558.3,345.4L559.1,348.4L559.4,345.4L560.4,325.5L559.3,325.5L559.1,328.6L558.9,325.5L557.6,325.5zM421.8,325.5L422.4,326.3L424.1,328.2L425.8,343.3L427.5,345.2L429.2,339L430.2,325.5L429.2,325.5L427.5,325.5L425.8,325.5L424.1,325.5L422.4,325.5zM480.1,325.5L480.5,332.5L481.1,325.5L480.5,325.5zM484.8,325.5L485.6,336.1L487.3,341.2L488.1,325.5L487.3,325.5L485.6,325.5zM495.4,325.5L495.9,333.6L497.6,327.2L499.3,334.5L500.2,325.5L499.3,325.5L497.6,325.5L495.9,325.5z"/>
<path fill="#00f000" d="M542.6,464.9L543.7,466.6L545.4,468L545.9,464.9L547.1,459.9L548.8,450.6L549.5,445L550.5,433.9L551.5,425.1L552.3,417.9L553.9,425.1L554,425.9L554.4,445L555.7,460.7L557.4,463.1L557.6,445L558.3,425.1L559.1,416.9L559.8,425.1L560.6,445L560.8,447.2L561,445L562.5,432.9L564.2,445L564.2,445.2L565.9,449.1L567.6,451.5L569.3,445L569.3,444.9L571.1,441.1L572.8,442L573,445L574.5,458.8L576.2,456.5L577.9,451.8L579.6,454.3L581.3,460.7L583,463.2L584.7,453.3L586.4,445L586.4,444.8L588.2,435.6L589.9,435.4L590.8,445L591.6,463.5L593.3,457L595,450.4L596.7,447.4L598,445L598.4,443.7L600.1,438.5L601.8,444L601.9,445L603.5,453.3L605.2,449.1L607,447.5L608.7,458.4L609.7,464.9L610.4,467.1L612.1,467.2L612.9,464.9L613.8,458.4L615.2,445L615.1,425.1L615.5,422.5L615.5,405.1L615.5,396.6L613.8,399.9L612.1,400.5L610.4,401.5L610,405.1L608.9,425.1L608.7,427.8L608.3,425.1L607,418.1L605.2,424L604.6,425.1L603.5,428L603.2,425.1L601.8,418.2L600.1,416.8L598.4,421.2L597.5,425.1L596.7,427.4L595.7,425.1L595.6,405.1L596.2,385.2L595.5,365.3L595,353.3L594,365.3L593.7,385.2L593.4,405.1L593.3,406.6L591.6,418.1L589.9,413.2L588.2,407.4L587.8,405.1L586.4,397.7L584.7,404.5L583,401.3L581.8,385.2L581.3,377.2L580.7,385.2L580.3,405.1L579.6,421.5L577.9,418L576.5,425.1L576.2,426.7L575.4,425.1L576.2,417.1L576.4,405.1L576.2,400.8L574.5,394.2L574,405.1L572.8,413.6L571.1,419L569.4,425.1L569.3,425.2L567.6,432.2L566.9,425.1L565.9,416.1L564.3,405.1L564.2,404.8L562.7,385.2L562.5,382.2L561.3,365.3L561.1,345.4L561.4,325.5L560.8,325.5L560.4,325.5L559.4,345.4L559.1,348.4L558.3,345.4L557.6,325.5L557.4,325.5L556.5,325.5L556.4,345.4L556.6,365.3L555.8,385.2L555.7,386.7L555.6,385.2L554,369L553.2,365.3L552.3,354.2L550.7,365.3L550.6,385.2L550.5,385.4L550.5,385.2L548.8,375.6L547.1,375.9L545.8,385.2L546.1,405.1L545.4,411.4L544.7,405.1L543.7,392.7L543.5,385.2L543.2,365.3L542,351L540.5,365.3L540.3,368.2L538.6,379.1L538.1,385.2L536.9,396.9L535.2,401.5L534.3,405.1L533.5,409.9L532.8,405.1L533.5,393.3L533.7,385.2L533.9,365.3L533.5,361L532.4,365.3L531.7,377.3L530.5,365.3L530,358.9L528.3,347.8L528.3,345.4L526.6,331L524.9,335.1L523.2,329.3L522.4,325.5L521.5,325.5L519.8,325.5L519.2,325.5L518.8,345.4L518.1,365.3L518.1,365.6L518,365.3L516.4,360.6L514.7,345.4L514.7,341.5L514.3,325.5L512.9,325.5L511.2,325.5L510.3,325.5L511.2,338.7L511.7,345.4L511.2,353.9L509.5,348.1L509.1,345.4L507.8,329.7L507.6,325.5L506.1,325.5L504.4,325.5L504.4,325.6L502.7,332.3L502.4,325.5L501,325.5L500.2,325.5L499.3,334.5L497.6,327.2L495.9,333.6L495.4,325.5L494.1,325.5L493.6,325.5L492.4,334.9L491.3,345.4L490.7,349.9L490,345.4L490.3,325.5L489,325.5L488.1,325.5L487.3,341.2L485.6,336.1L484.8,325.5L483.9,325.5L482.2,325.5L481.1,325.5L480.5,332.5L480.1,325.5L478.8,325.5L477,325.5L475.3,325.5L473.6,325.5L471.9,325.5L470.2,325.5L469.5,325.5L470.2,345.4L470.2,359.6L470.2,365.3L470.2,365.4L470,365.3L468.5,364.4L468.5,365.3L468.5,366.3L469.3,385.2L470.2,400.5L471.9,395.9L472.6,385.2L473.6,376.3L475.3,376.8L476.6,385.2L477,389.6L478.8,390.8L479.8,405.1L480.5,415L482.2,421.3L483,405.1L483.9,391.7L485.6,390.4L487.3,402.8L487.8,405.1L489,410.4L490.7,425.1L490.7,425.2L492.4,433.7L494.1,429.5L495.3,425.1L495.8,423.2L497.6,406.4L497.8,405.1L499.3,398.1L501,396.2L502.1,385.2L502.7,378L503.3,385.2L503.4,405.1L504.4,418.4L506.1,418.3L507.7,405.1L507.8,403.3L507.9,405.1L509.5,416.5L511.2,424.2L512.9,423.1L514.7,418.8L516.3,425.1L516.4,431.1L516.5,425.1L518.1,411.8L519.8,413.8L521.5,415.1L523.2,409.4L524.9,425.1L524.9,425.5L526.6,430.5L527.1,425.1L528.3,415.5L529.9,405.1L530,404.8L530.1,405.1L531.7,423.7L531.9,425.1L533.5,435.5L535.2,427.1L536.1,425.1L536.9,422.5L538.6,419.8L539.8,425.1L540.3,427.6L541.4,425.1L542,421.9L542.2,425.1L543.3,445zM547.1,427.9L546.9,425.1L547.1,422.1L547.6,425zM560.8,405.6L560.8,405.1L560.8,404.8L560.8,405.1zM581.3,446.7L580.7,445L581.3,426L583,439.3L583.4,445L583,447.6zM480.5,372.2L480.2,365.3L480.5,361.5L482.2,359.4L482.7,365.3L482.2,372.2zM490.7,395.3L489.9,385.2L490.7,376.7L492.1,385.2zM512.9,390.9L512.3,385.2L512.9,378.8L514.3,385.2zM516.4,393.2L516.1,385.2L516.4,381.3L516.8,385.2zM521.5,376.2L521,365.3L521.5,362.6L522.3,365.3zM528.3,385.6L528.3,385.2L528.3,382.9L528.5,385.2zM540.3,391.7L540.1,385.2L540.3,383.4L541.7,365.3L542,362.4L542.2,365.3L542,385.2L542,386.6zM455.6,345.4L456.5,352.3L458.2,354.8L460,349.7L461.7,353.9L463.2,345.4L463.4,343.8L464.7,325.5L463.4,325.5L461.7,325.5L460.8,325.5L460,331.4L458.2,328.9L457.8,325.5L456.5,325.5L454.8,325.5L453.1,325.5L453,325.5L453.1,329.1L454.8,336.8zM575.6,345.4L576.2,353L577.2,345.4L577.9,334.4L578.2,325.5L577.9,325.5L576.9,325.5L576.2,331.1z"/>
<path fill="#ffff00" d="M580.7,445L581.3,446.7L583,447.6L583.4,445L583,439.3L581.3,426zM546.9,425.1L547.1,427.9L547.6,425.1L547.1,422.1zM566.9,425.1L567.6,432.2L569.3,425.2L569.4,425.1L571.1,419L572.8,413.6L574,405.1L574.5,394.2L576.2,400.8L576.4,405.1L576.2,417.1L575.4,425.1L576.2,426.7L576.5,425.1L577.9,418L579.6,421.5L580.3,405.1L580.7,385.2L581.3,377.2L581.8,385.2L583,401.3L584.7,404.5L586.4,397.7L587.8,405.1L588.2,407.4L589.9,413.2L591.6,418.1L593.3,406.6L593.4,405.1L593.7,385.2L594,365.3L595,353.3L595.5,365.3L596.2,385.2L595.6,405.1L595.7,425.1L596.7,427.4L597.5,425.1L598.4,421.2L600.1,416.8L601.8,418.2L603.2,425.1L603.5,428L604.6,425.1L605.2,424L607,418.1L608.3,425.1L608.7,427.8L608.9,425.1L610,405.1L610.4,401.5L612.1,400.5L613.8,399.9L615.5,396.6L615.5,385.2L615.5,370.7L613.8,376.4L612.1,382.1L611.6,365.3L610.4,345.9L608.8,365.3L608.7,367.1L607,371.4L605.7,385.2L605.2,394.1L604.1,385.2L603.5,380.4L601.8,382.6L600.1,378.8L598.6,365.3L598.4,363.3L596.7,354.5L596.3,345.4L596.1,325.5L595,325.5L593.5,325.5L593.3,327.2L591.9,345.4L592.4,365.3L591.8,385.2L591.6,389.9L589.9,390.9L588.2,388.2L587.7,385.2L586.4,372.7L584.9,385.2L584.7,385.8L584.6,385.2L583,369L582.8,365.3L581.3,349.4L580.8,345.4L580.2,325.5L579.6,325.5L578.2,325.5L577.9,334.4L577.2,345.4L576.2,353L575.6,345.4L576.2,331.1L576.9,325.5L576.2,325.5L574.5,325.5L574.3,325.5L572.9,345.4L572.8,346.8L571.4,365.3L571.1,367.8L569.3,379.5L569.1,365.3L568.8,345.4L568.2,325.5L567.6,325.5L566,325.5L565.9,325.7L565.1,345.4L565.9,358.3L566.6,365.3L565.9,375.6L564.2,379L563.3,365.3L562.5,353.6L562.3,345.4L562.3,325.5L561.4,325.5L561.1,345.4L561.3,365.3L562.5,382.2L562.7,385.2L564.2,404.8L564.3,405.1L565.9,416.1zM532.8,405.1L533.5,409.9L534.3,405.1L535.2,401.5L536.9,396.9L538.1,385.2L538.6,379.1L540.3,368.2L540.5,365.3L542,351L543.2,365.3L543.5,385.2L543.7,392.7L544.7,405.1L545.4,411.4L546.1,405.1L545.8,385.2L547.1,375.9L548.8,375.6L550.5,385.2L550.5,385.4L550.6,385.2L550.7,365.3L552.3,354.2L553.2,365.3L554,369L555.6,385.2L555.7,386.7L555.8,385.2L556.6,365.3L556.4,345.4L556.5,325.5L555.7,325.5L555.3,325.5L554,344L552.3,334.2L551.4,325.5L550.5,325.5L549.6,325.5L548.8,338.1L547.8,345.4L547.1,349.6L545.4,357.5L543.7,351.3L543.3,345.4L542,332.5L540.3,336.1L539.2,345.4L538.6,351.1L537.9,345.4L537.2,325.5L536.9,325.5L535.2,325.5L533.5,325.5L531.7,325.5L530.4,325.5L530,328.2L528.7,325.5L528.3,325.5L526.6,325.5L524.9,325.5L523.2,325.5L522.4,325.5L523.2,329.3L524.9,335.1L526.6,331L528.3,345.4L528.3,347.8L530,358.9L530.5,365.3L531.7,377.3L532.4,365.3L533.5,361L533.9,365.3L533.7,385.2L533.5,393.3zM512.3,385.2L512.9,390.9L514.3,385.2L512.9,378.8zM528.3,385.2L528.3,385.6L528.5,385.2L528.3,382.9zM518,365.3L518.1,365.6L518.1,365.3L518.8,345.4L519.2,325.5L518.1,325.5L516.4,325.5L514.7,325.5L514.3,325.5L514.7,341.5L514.7,345.4L516.4,360.6zM490,345.4L490.7,349.9L491.3,345.4L492.4,334.9L493.6,325.5L492.4,325.5L490.7,325.5L490.3,325.5zM509.1,345.4L509.5,348.1L511.2,353.9L511.7,345.4L511.2,338.7L510.3,325.5L509.5,325.5L507.8,325.5L507.6,325.5L507.8,329.7zM612.4,345.4L613.8,354.2L615.5,345.4L615.5,344.9L615.5,325.5L613.8,325.5L613.2,325.5zM457.8,325.5L458.2,328.9L460,331.4L460.8,325.5L460,325.5L458.2,325.5zM502.4,325.5L502.7,332.3L504.4,325.6L504.4,325.5L502.7,325.5z"/>
<path fill="#ff8000" d="M584.6,385.2L584.7,385.8L584.9,385.2L586.4,372.7L587.7,385.2L588.2,388.2L589.9,390.9L591.6,389.9L591.8,385.2L592.4,365.3L591.9,345.4L593.3,327.2L593.5,325.5L593.3,325.5L591.6,325.5L590.4,325.5L589.9,330.6L588.2,341.2L588,345.4L586.4,353.7L584.7,348.1L584.4,345.4L583,336.6L581.9,325.5L581.3,325.5L580.2,325.5L580.8,345.4L581.3,349.4L582.8,365.3L583,369zM604.1,385.2L605.2,394.1L605.7,385.2L607,371.4L608.7,367.1L608.8,365.3L610.4,345.9L611.6,365.3L612.1,382.1L613.8,376.4L615.5,370.7L615.5,365.3L615.5,345.4L615.5,344.9L615.5,345.4L613.8,354.2L612.4,345.4L613.2,325.5L612.2,325.5L612.1,327.2L611.6,325.5L610.4,325.5L608.7,325.5L607,325.5L605.2,325.5L604.1,325.5L603.5,327.7L601.8,329.2L601,345.4L600.1,353.5L599.3,345.4L598.4,336.1L598,325.5L596.7,325.5L596.1,325.5L596.3,345.4L596.7,354.5L598.4,363.3L598.6,365.3L600.1,378.8L601.8,382.6L603.5,380.4zM563.3,365.3L564.2,379L565.9,375.6L566.6,365.3L565.9,358.3L565.1,345.4L565.9,325.7L566,325.5L565.9,325.5L564.2,325.5L562.5,325.5L562.3,325.5L562.3,345.4L562.5,353.6zM569.1,365.3L569.3,379.5L571.1,367.8L571.4,365.3L572.8,346.8L572.9,345.4L574.3,325.5L572.9,325.5L572.8,327.5L571.1,333.7L570.3,325.5L569.3,325.5L568.2,325.5L568.8,345.4zM537.9,345.4L538.6,351.1L539.2,345.4L540.3,336.1L542,332.5L543.3,345.4L543.7,351.3L545.4,357.5L547.1,349.6L547.8,345.4L548.8,338.1L549.6,325.5L548.8,325.5L547.1,325.5L546.1,325.5L545.4,329.8L544.5,325.5L543.7,325.5L542,325.5L540.3,325.5L538.6,325.5L537.2,325.5zM528.7,325.5L530,328.2L530.4,325.5L530,325.5zM551.4,325.5L552.3,334.2L554,344L555.3,325.5L554,325.5L552.3,325.5z"/>
<path fill="#ff0000" d="M584.4,345.4L584.7,348.1L586.4,353.7L588,345.4L588.2,341.2L589.9,330.6L590.4,325.5L589.9,325.5L588.2,325.5L586.4,325.5L584.7,325.5L583,325.5L581.9,325.5L583,336.6zM599.3,345.4L600.1,353.5L601,345.4L601.8,329.2L603.5,327.7L604.1,325.5L603.5,325.5L601.8,325.5L600.1,325.5L598.4,325.5L598,325.5L598.4,336.1zM544.5,325.5L545.4,329.8L546.1,325.5L545.4,325.5zM570.3,325.5L571.1,333.7L572.8,327.5L572.9,325.5L572.8,325.5L571.1,325.5zM611.6,325.5L612.1,327.2L612.2,325.5L612.1,325.5z"/>
</g>
<rect x="376.2" y="325.5" width="239.3" height="199.1" fill="none" stroke="#000" stroke-width="1"/>
<path d="M393.3,524.6v4.2M427.5,524.6v4.2M461.7,524.6v4.2M495.9,524.6v4.2M530.0,524.6v4.2M564.2,524.6v4.2M598.4,524.6v4.2M376.2,524.6v2.3M410.4,524.6v2.3M444.6,524.6v2.3M478.8,524.6v2.3M512.9,524.6v2.3M547.1,524.6v2.3M581.3,524.6v2.3M615.5,524.6v2.3M376.2,524.6h-4.2M376.2,484.8h-4.2M376.2,445.0h-4.2M376.2,405.1h-4.2M376.2,365.3h-4.2M376.2,325.5h-4.2M376.2,504.7h-2.3M376.2,464.9h-2.3M376.2,425.1h-2.3M376.2,385.2h-2.3M376.2,345.4h-2.3" stroke="#000" stroke-width=".9" fill="none"/>
<g style="font-family:'Liberation Serif',serif;font-weight:bold;font-size:9.00px" text-anchor="middle">
<text transform="translate(393.3,538.3) scale(1.100,1)">20000</text>
<text transform="translate(427.5,538.3) scale(1.100,1)">40000</text>
<text transform="translate(461.7,538.3) scale(1.100,1)">60000</text>
<text transform="translate(495.9,538.3) scale(1.100,1)">80000</text>
<text transform="translate(530.0,538.3) scale(1.100,1)">100000</text>
<text transform="translate(564.2,538.3) scale(1.100,1)">120000</text>
<text transform="translate(598.4,538.3) scale(1.100,1)">140000</text>
</g>
<g style="font-family:'Liberation Serif',serif;font-weight:bold;font-size:9.00px" text-anchor="end">
<text transform="translate(368.6,527.7) scale(1.100,1)">0</text>
<text transform="translate(368.6,487.9) scale(1.100,1)">5</text>
<text transform="translate(368.6,448.1) scale(1.100,1)">10</text>
<text transform="translate(368.6,408.2) scale(1.100,1)">15</text>
<text transform="translate(368.6,368.4) scale(1.100,1)">20</text>
<text transform="translate(368.6,328.6) scale(1.100,1)">25</text>
</g>
<text transform="translate(494.1,551.1) scale(1.100,1)" text-anchor="middle" style="font-family:'Liberation Serif',serif;font-weight:bold;font-size:11.18px">Steps</text>
<text transform="translate(355.0,420.8) scale(1.100,1) rotate(-90)" text-anchor="middle" style="font-family:'Liberation Serif',serif;font-weight:bold;font-size:11.70px">Cutting angle(°)</text>
<rect x="631.5" y="325.00" width="22.5" height="14.19" fill="#000000"/>
<rect x="631.5" y="338.89" width="22.5" height="14.19" fill="#0000ff"/>
<rect x="631.5" y="352.78" width="22.5" height="14.19" fill="#0080ff"/>
<rect x="631.5" y="366.67" width="22.5" height="14.19" fill="#00ffff"/>
<rect x="631.5" y="380.56" width="22.5" height="14.19" fill="#00ff80"/>
<rect x="631.5" y="394.44" width="22.5" height="14.19" fill="#00f000"/>
<rect x="631.5" y="408.33" width="22.5" height="14.19" fill="#ffff00"/>
<rect x="631.5" y="422.22" width="22.5" height="14.19" fill="#ff8000"/>
<rect x="631.5" y="436.11" width="22.5" height="13.89" fill="#ff0000"/>
<g style="font-family:'Liberation Serif',serif;font-weight:bold;font-size:8.2px">
<text x="657.5" y="341.7">-2.500</text>
<text x="657.5" y="355.6">17.06</text>
<text x="657.5" y="369.5">36.63</text>
<text x="657.5" y="383.4">56.19</text>
<text x="657.5" y="397.2">75.75</text>
<text x="657.5" y="411.1">95.31</text>
<text x="657.5" y="425.0">114.9</text>
<text x="657.5" y="438.9">134.4</text>
<text x="657.5" y="452.8">154.0</text>
</g>
<text x="340.6" y="578.0" text-anchor="middle" style="font-family:'Liberation Serif',serif;font-size:17.4px">b) cutting force in y direction</text>
<path d="M159.5,836.7L265.3,783.9M265.3,783.9L271.9,625.7M138.3,829.3L245.5,778.7M245.5,778.7L250.8,623.2M118.1,822.2L226.5,773.6M226.5,773.6L230.5,620.9M98.8,815.5L208.1,768.7M208.1,768.7L211,618.6M80.2,809L190.4,764M190.4,764L192.2,616.5M62.5,802.7L173.3,759.5M173.3,759.5L174.2,614.4M45.4,796.8L156.7,755.1M156.7,755.1L156.7,612.4M194.5,828.1L62.3,784.6M62.3,784.6L56.5,625.7M216.9,816.6L85.9,776M85.9,776L81.7,621.8M237.8,805.9L108.1,767.8M108.1,767.8L105.3,618.1M257.3,796L129,760.2M129,760.2L127.4,614.6M36.9,789.4L148.7,749.1M148.7,749.1L275.7,782.2M35.8,766.8L148.6,729.4M148.6,729.4L276.7,760.2M34.8,743.7L148.6,709.4M148.6,709.4L277.7,737.7M33.7,720.3L148.5,689.2M148.5,689.2L278.7,714.9M32.6,696.5L148.4,668.6M148.4,668.6L279.8,691.7M31.5,672.2L148.4,647.7M148.4,647.7L280.9,668M30.3,647.5L148.3,626.5M148.3,626.5L281.9,644" stroke="#e6e6e6" stroke-width=".6" fill="none"/>
<path d="M148.7,753L148.3,611.4M275.5,786.6L282.7,626.9M37.1,793.9L148.7,753M275.5,786.6L148.7,753" stroke="#555" stroke-width=".7" fill="none"/>
<path d="M29.5,629.9L148.3,611.4M148.3,611.4L282.7,626.9" stroke="#444" stroke-width=".7" fill="none"/>
<g fill="currentColor" stroke="currentColor" stroke-width=".6" stroke-linejoin="round">
<path color="#d00" d="M149.2,637.5l-.9-6.2-5,9.1 .8,1.2zM160.7,641.1l-.6-6.8-5,7.9 .6,4.3z"/>
<path color="#e00" d="M150,643.8l-.8-6.3-5.1,4.1 .9,1.2zM173.1,644.5l-.8-9.1-5,7.3 .8,8.7z"/>
<path color="#f00" d="M153.4,639.1l-1.7,2.3-.8,1.2-.9,1.2-5-1 .8,1.8 .9,1.9 1.7,2.5zM162.7,646.8l-.9,7.7-.5-6.7-.6-6.7-5,5.4 .6,4.2 .5,4.2 .9-5.7zM169.3,642.7l-.6,4-.9,3.5-.8,3.4-.6,4.1-.6,4.1-.6,4.1-.5-8.9-.6-8.9-.5-9-5,4.4 .5,7.8 .6,7.9 .6,7.8 .5-5.9 .6-6 .6-6 .9,2.1 .8,2.2 .6-5.4zM185.6,668.8l-.5-8.6-.5-8.7-1,7.3-1,7.2-.5-10.4-.5-10.4-4.9,1.2 .5,8.8 .6,8.7 .9-2.9 .9-2.9 .5,6.9 .6,7zM194.6,671.2l-.5-6.3-.6-6.4-1.8-.1-1.9,8.3-.5-7.1-.5-7-.6-7.1-.7,10.7-.7,10.7-4.9,2.5 .7-9.6 .7-9.6 .5,5.4 .6,5.4 .5,5.5 1.9-2.6 1.8,1.7 .5,3.2 .6,3.1zM211.2,670.9l-.5-6.4-.5-6.4-1,5-1,5.1-1.9-2.7-1.8-2.2-.5-4.7-.6-4.8-.5-4.8-.7,5.2-.7,5.2-.7,5.2-1.9,2.1-1,5-4.9,6.9 1-7 1.9-2.9 .7-6.6 .7-6.6 .7-6.7 .5,7.1 .6,7 .5,7.1 1.8,1.1 1.8,3.8 1-2.7 1-2.7 .6,4.8 .5,4.8zM215.6,673.9l-1,1.3-.9,1.3-4.8-3.4 .9,1.8 1,1.9z"/>
<path color="#c00" d="M155.9,638.1l-.9-5.8-.5,2.3-5,6.1 .5-4.2 .9,5.1zM160.1,634.3l-.8-3.2-5,5.6 .8,5.5zM172.3,635.4l-.9-.3-.9-.4-.6,4.1-5,3.9 .6-5.4 .9,2.7 .9,2.7zM181.6,645.2l-.5-10.6-4.9,3 .5,8.8z"/>
<path color="#b00" d="M159.3,631.1l-.9-3.2-.8,8-5,3 .8-7.8 .9,5.6zM181.1,634.6l-1.7-2.7-5,7.1 1.8-1.4z"/>
<path color="#f20" d="M195.1,677.5l-.5-6.3-4.9,.7 .6,3.2zM211.8,677.2l-.6-6.3-4.9,8.2 .5,4.7zM216.4,680.2l-.8-6.3-4.8,2.9 .8,6.6z"/>
<path color="#f60" d="M217.2,686.4l-.8-6.2-4.8,3.2 .8,6.6zM221.7,685.6l-.5-7.6-1.1,7.3-4.8,2.3 1.1-3.7 .5,6.2zM225.9,685.3l-.9-4.5-4.9,6.3 .9,5.7z"/>
<path color="#fa0" d="M220.1,685.3l-1.1,7.3-1.8-6.2-4.8,3.6 1.9,1.3 1-3.7zM222.2,693.1l-.5-7.5-4.8,4.5 .5,6.2zM226.7,689.7l-.8-4.4-4.9,7.5 .8,5.7z"/>
<path color="#fe0" d="M227.5,697.6l-.8-7.9-4.9,8.8 .9,5.2z"/>
<path color="#df0" d="M228.3,705.4l-.8-7.8-4.8,6.1 .8,5.3zM232.7,707.8l-.4-6.7-2.1,5.6-1-.7-4.7,1 1-1.9 1.9,1.3 .6,3.6z"/>
<path color="#be0" d="M229.2,706l-.9-.6-4.8,3.6 1-2zM237.9,708.5l-2,.8-4.7,2.4 1.9,1.8z"/>
<path color="#9e0" d="M233.2,714.5l-.5-6.7-4.7,2.2 .6,3.6zM239.7,716l-1.8-7.5-4.8,5 1.8,6.7z"/>
<path color="#8e0" d="M234.8,715.2l-1.2,5.9-.4-6.6-4.6-.9 .5,3.5 1.1-2.7z"/>
<path color="#6e0" d="M240.5,721.8l-.8-5.8-4.8,4.2 .9,3z"/>
<path color="#4e0" d="M241.3,727.6l-.8-5.8-4.7,1.4 .9,2.9z"/>
<path color="#2e1" d="M242.2,728.8l-.9-1.2-4.6-1.5 .9,3.5z"/>
<path color="#0e2" d="M243.2,730.1l-1-1.3-4.6,.8 .9,3.5z"/>
<path color="#0ed" d="M244.9,739l-1.7-8.9-4.7,3 1.8,6.7z"/>
<path color="#0cf" d="M250.7,742.4l-1.9-1.6-2,.8-1.9-2.6-4.6,.8 1.9,2.5 2,.8 1.9,3z"/>
<path color="#07f" d="M252.6,747.4l-1.9-5-4.6,3.7 1.8,5.5z"/>
<path color="#05f" d="M253.4,752.8l-.8-5.4-4.7,4.2 .8,4.5z"/>
<path color="#00f" d="M256.1,759.4l-1.9-1.2-.8-5.4-4.7,3.3 .9,4.4 2,1z"/>
<path color="#20f" d="M258,764l-1.9-4.6-4.5,2.1 1.8,4.3z"/>
<path color="#70d" d="M259.8,770.2l-1.8-6.2-4.6,1.8 1.8,6.6z"/>
<path color="#70c" d="M261.6,775.8l-1.8-5.6-4.6,2.2 1.9,5.5z"/>
<path color="#70a" d="M263.5,777.5l-1.9-1.7-4.5,2.1 1.9,1.8z"/>
<path color="#708" d="M275.7,781.1l-2-.6-2.1-.6-2-.6-2.1-.6-2-.6-2-.6-4.5,2.2 2,.6 2.1,.6 2,.6 2,.7 2.1,.6 2.1,.6z"/>
<path color="#f00" d="M144.1,641.6l-.8-1.2-5,9.2 .8-3.9zM149.5,640.7l-.6,4.2-.5,4.1-1.7-2.5-.9-1.9-5.1,2.1 .9,4.9 1.7,7.5 .6-6.1 .5-6.1zM151.7,646.6l-.8-5-5.1,3.5 .9,4.4zM164.9,642.7l-.6,5.3-.6,5.4-.8-2.2-.9-2.1-.6,6-.6,6-.5,5.9-.6-7.8-.6-7.9-.5-7.8-.9,5.7-.9,5.7-.5-4.2-.6-4.2-.6-4.3-5,8 .5,1.7 .6,1.7 .6,1.6 .8-3.6 .9-3.7 .6,6.8 .6,6.7 .5,6.8 .6-7.8 .6-7.9 .6-8 .8,7.8 .9,7.8 .6-6.7 .6-6.8zM173.7,643.8l-.6,4.9-.6,4.8-.9,1-.9,1-.9,2.3-.9,2.2-.8-8.6-.8-8.7-5.1,7.4 .9,8.2 .8,8.2 .9,.7 .9,.6 .9-6.1 .9-6.2 .6-3.1 .6-3.1zM180.7,672l-.6-7-.5-6.9-.9,2.9-.9,2.9-.6-8.7-.5-8.8-5,1.3 .5,7 .6,7.1 .9,1.5 .9,1.5 .5,5.2 .6,5.2zM189.7,671.9l-.6-3.1-.5-3.2-1.8-1.7-1.9,2.6-.5-5.5-.6-5.4-.5-5.4-.7,9.6-.7,9.6-5,2.5 .7-8.5 .6-8.6 .6,3.9 .6,3.8 .6,3.7 1.7,3.3 1.8,3.2 .6,0 .7,0zM201.4,671.1l-1.8-1.1-.5-7.1-.6-7-.5-7.1-.7,6.7-.7,6.6-.7,6.6-1.9,2.9-5,4.9 1.9-3.7 .7-8 .7-8.1 .8-8.1 .5,9.4 .5,9.4 .5,9.3 1.8,0zM210.8,676.8l-1-1.9-.9-1.8-.7,3.6-4.8-.1 .7-7.1 .9,5.2 .8,5.1z"/>
<path color="#e00" d="M145.8,644.6l-.8-1.8-.9-1.2-5,4.1 .8-4 .8,5zM155.1,642.2l-.8-5.5-5.1,5.6 .9,7.9zM167.3,642.7l-.9-2.7-5.1,5 .9,5.1z"/>
<path color="#d00" d="M150.9,641.6l-.9-5.1-.5,4.2-5.1,6.2 .5-6.1 .9,4.3zM176.7,646.4l-.5-8.8-5.1,3 .6,7.1z"/>
<path color="#c00" d="M154.3,636.7l-.9-5.6-.8,7.8-5.1,3.1 .8-7.6 .9,7.9zM166.4,640l-.9-2.7-5,2.5 .8,5.2z"/>
<path color="#f20" d="M190.3,675.1l-.6-3.2-4.9,.8 .6,0zM205.8,674.3l-.6-4.8-1,2.7-1,2.7-1.8-3.8-5,5.6 1.8,4.9 1-.3 .9-.2 .6,3.1z"/>
<path color="#f40" d="M190.8,678.6l-.5-3.5-4.9-2.4 .5,7.3zM206.3,679.1l-.5-4.8-5.1,9.9 .6,3.1zM211.6,683.4l-.8-6.6-5,3 .9,6.9z"/>
<path color="#f90" d="M212.4,690l-.8-6.6-4.9,3.3 .8,7zM216.9,690.1l-.5-6.2-1.1,3.7-1,3.7-4.8-1.2 .9-.2 1-.1 .6,4.8z"/>
<path color="#fa0" d="M214.3,691.3l-1.9-1.3-4.9,3.7 2-3.6zM221,692.8l-.9-5.7-.7,5.1-4.9,4.8 .7-3.6 .8,7z"/>
<path color="#fc0" d="M217.4,696.3l-.5-6.2-4.9,4.5 .5,4.8z"/>
<path color="#ef0" d="M218.6,697.3l-.7,5.1-.5-6.1-4.9,3.1 .5,4.9 .8-3.6z"/>
<path color="#fe0" d="M221.8,698.5l-.8-5.7-5,7.6 .8,6.9z"/>
<path color="#df0" d="M222.7,703.7l-.9-5.2-5,8.8 .9,2.7zM227.4,706.4l-1.9-1.3-1,1.9-4.8,1.1 1.1-4.6 1.8,8.3z"/>
<path color="#be0" d="M224.5,707l-1,2-.8-5.3-5,6.3 .9,2.6 1.1-4.5zM228.6,713.6l-.6-3.6-.6-3.6-4.8,5.4 .6,.4 .7,.4z"/>
<path color="#9e0" d="M233.1,713.5l-1.9-1.8-1,2.7-1.1,2.7-.5-3.5-4.7-1 .6,.5 1,.5 .9,.6 1.9,4.4z"/>
<path color="#8e0" d="M234.9,720.2l-1.8-6.7-4.8,5.1 1.8,5.9z"/>
<path color="#6e0" d="M235.8,723.2l-.9-3-4.8,4.3 1,.1z"/>
<path color="#4e0" d="M236.7,726.1l-.9-2.9-4.7,1.4 1,.1z"/>
<path color="#2e1" d="M237.6,729.6l-.9-3.5-4.6-1.4 .8,5.7z"/>
<path color="#0e2" d="M238.5,733.1l-.9-3.5-4.7,.8 .9,5.7z"/>
<path color="#0ed" d="M240.3,739.8l-1.8-6.7-4.7,3 1.8,4.5z"/>
<path color="#0cf" d="M244.2,743.1l-2-.8-1.9-2.5-4.7,.8 1.9,2.4 2,2.4z"/>
<path color="#09f" d="M246.1,746.1l-1.9-3-4.7,2.3 1.8,4.4z"/>
<path color="#07f" d="M247.9,751.6l-1.8-5.5-4.8,3.7 1.9,6.1z"/>
<path color="#02f" d="M248.7,756.1l-.8-4.5-4.7,4.3 .9,3.5z"/>
<path color="#00f" d="M251.6,761.5l-2-1-.9-4.4-4.6,3.3 .9,3.5 2,.7z"/>
<path color="#20f" d="M253.4,765.8l-1.8-4.3-4.6,2.1 1.8,3.9z"/>
<path color="#70d" d="M255.2,772.4l-1.8-6.6-4.6,1.7 1.8,7.1z"/>
<path color="#70c" d="M257.1,777.9l-1.9-5.5-4.6,2.2 1.9,5.4z"/>
<path color="#70a" d="M259,779.7l-1.9-1.8-4.6,2.1 1.9,1.9z"/>
<path color="#708" d="M271.3,783.4l-2.1-.6-2.1-.6-2-.7-2-.6-2.1-.6-2-.6-4.6,2.2 2.1,.6 2,.7 2.1,.6 2,.6 2.1,.6 2,.6z"/>
<path fill="none" stroke="#8c8c8c" stroke-width=".4" stroke-opacity=".7" d="M256.1,759.4L247,763.6M237.9,708.5L228.3,718.6M219,692.6L209.5,690.1M200.8,664.6L190.9,672.8M182.6,666L172.8,661.8M165.2,665.9L155.2,668.2"/>
<path fill="none" stroke="#4a4a3a" stroke-width=".45" stroke-opacity=".8" d="M266.7,785.6l-2-.6-2.1-.6-2-.6-2.1-.6-2-.7-2.1-.6-1.9-1.9-1.9-5.4-1.8-7.1-1.8-3.9-2-.7-1.8-7-1.9-6.1-1.8-4.4-2-2.4-1.9-2.4-1.8-4.5-1.7-11.4-2-.2-1.8-5.9-1.9-4.4-1.9-1.1-1.9-1.3-1.8-8.3-2.2,9.1-1.8-5.3-1.6-13.9-2.2,10.9-1.6-14.5-1.9,.3-2,3.6-1.7-13.9-1.7-10.3-2.2,21-1.8-9.4-1.9,.5-1.8-4.9-1.8,0-1.5-28.1-2.2,24.2-1.9,3.7-2,17.9-1.6-21.7-1.9,0-1.8-3.2-1.7-3.3-1.8-11.4-2,25.6-1.6-15.6-1.8-3-1.7-21.2-1.8,5.6-1.8,9.3-1.8,12.3-1.8-1.3-1.7-16.4-1.7-10.3-1.8,20.3-1.7-15.6-1.8,23.7-1.7-20.3-1.7,7.3-1.7-5-1.8-15.8-1.6,15.1-1.8-8.7-1.6,18.3-1.7-7.5-1.7-9.9-1.6,7.9"/>
<path color="#f00" d="M147.5,642l-.8,7.5-.9-4.4-.9-4.3-.5,6.1-.5,6.1-.6,6.1-1.7-7.5-.9-4.9-.8-5-1.6,7.9-5.2,5.6 1.7-4 .8,3 .9,3.1 1.7,2.5 .5-4 .6-4.1 .5-4 .9,6.5 .9,6.5 .8-7.2zM159.9,646.6l-.6,6.8-.6,6.7-.9-7.8-.8-7.8-.6,8-.6,7.9-.6,7.8-.5-6.8-.6-6.7-.6-6.8-1.7,7.3-1.7-5-.9-7.9-5.1,7.6 .8,3.6 1.8,6.9 1.7-1.7 .6,4.7 .6,4.8 .5,4.7 .6-7.7 .6-7.7 .5-7.8 .9,4.7 .9,4.7 .6-2.6 .5-2.5zM170.2,643.4l-.9,2.8-.9,4.6-.9,4.7-.9,6.2-.9,6.1-1.8-1.3-.6-5.5-.5-5.4-.6-5.5-.9-5.1-5.1,6.8 .9,.5 .6,7.1 .5,7.2 .6,7.1 1.8,.4 .9-6.7 .9-6.6 .9-1.9 .8-1.8 .9-3.9zM175.4,672.6l-.8-7.8-.9-1.5-.9-1.5-.6-7.1-.5-7-5.2,5.7 .6,4.1 .6,4.1 .9,4.3 .9,4.4 .8,3.2zM184.5,672.7l-1,0-1.8-3.2-1.7-3.3-.9-5.6-.9-5.8-.6,8.6-.7,8.5-5,.3 .6-4.6 .6-4.7 .9,1.7 .9,1.7 1.8,1 1.8,6 .9,4zM194.1,667.4l-.5-9.4-.5-9.4-.8,8.1-.7,8.1-.7,8-5.1,6.5 .7-5 .7-5 .7-5 .5,7.3 .5,7.4zM205,674.7l-.9-5.2-.7,7.1-5.1,6.4 .7-4 .9,1.7z"/>
<path color="#e00" d="M149.2,642.3l-.9-7.9-.8,7.6-5.1,11.5 .8-7.3 .9,3.7zM161.3,645l-.8-5.2-.6,6.8-5.2,7.4 .6-2.6 .9,.4zM171.7,647.7l-.6-7.1-.9,2.8-5.2,9.8 1-3.9 .5,4.1z"/>
<path color="#f20" d="M185.4,672.7l-.9,0-5.1,4.6 .9,4zM194.6,676.7l-.5-9.3-5.2,11.6 .6,7.3zM205.8,679.8l-.8-5.1-5.1,6 1,1.8z"/>
<path color="#f40" d="M185.9,680l-.5-7.3-5.1,8.6 .6,3.8zM198.2,681.6l-1.8-4.9-1.8,0-5.1,9.6 1.9-1.3 1.8,2.4zM206.4,684.4l-.6-4.6-4.9,2.7 .5,5.6z"/>
<path color="#f60" d="M200.1,681.1l-1.9,.5-5,5.8 1.9,.6z"/>
<path color="#f90" d="M206.9,689.1l-.5-4.7-5,3.7 .6,5.6z"/>
<path color="#fa0" d="M211.4,689.8l-1.9,.3-2,3.6-.6-4.6-4.9,4.6 .5,5.5 2-5.2 1.8,4.3z"/>
<path color="#fc0" d="M212.2,697l-.8-7.2-5.1,8.5 .9,5.6z"/>
<path color="#ef0" d="M214.1,698.8l-1.1,5.5-.8-7.3-5,6.9 .9,5.5 1-4.4zM216.8,707.3l-.8-6.9-5,4.9 .9,4.7z"/>
<path color="#fe0" d="M216,700.4l-.8-7-1.1,5.4-5,6.2 1.1-4.5 .8,4.8z"/>
<path color="#be0" d="M219.7,708.1l-1.1,4.5-1.8-5.3-4.9,2.7 1.9,1.9 1-2zM225.5,713.6l-1-.5-1.9-1.3-4.9,3.9 2-2.4 .9,3z"/>
<path color="#df0" d="M222.6,711.8l-1.8-8.3-1.1,4.6-4.9,1.8 1.1-1.9 1.8,7.7z"/>
<path color="#9e0" d="M226.4,714.2l-.9-.6-4.9,2.7 .9,3z"/>
<path color="#8e0" d="M228.3,718.6l-1.9-4.4-4.9,5.1 1.9,2.4z"/>
<path color="#6e0" d="M232.1,724.7l-2-.2-1.8-5.9-4.9,3.1 1.9,3.9 2-.7z"/>
<path color="#4e0" d="M232.9,730.4l-.8-5.7-4.8,.2 .9,5z"/>
<path color="#0e2" d="M233.8,736.1l-.9-5.7-4.7-.5 .9,5.1z"/>
<path color="#0e7" d="M235.6,740.6l-1.8-4.5-4.7-1.1 1.8,5.4z"/>
<path color="#0ed" d="M237.5,743l-1.9-2.4-4.7-.2 1.9,3.5z"/>
<path color="#0cf" d="M239.5,745.4l-2-2.4-4.7,.9 1.9,5.2z"/>
<path color="#09f" d="M241.3,749.8l-1.8-4.4-4.8,3.7 1.9,2z"/>
<path color="#07f" d="M243.2,755.9l-1.9-6.1-4.7,1.3 1.9,5.9z"/>
<path color="#02f" d="M245,762.9l-1.8-7-4.7,1.1 1.8,6.9z"/>
<path color="#00f" d="M247,763.6l-2-.7-4.7,1 1.9,2.2z"/>
<path color="#20f" d="M248.8,767.5l-1.8-3.9-4.8,2.5 2,3.6z"/>
<path color="#70d" d="M250.6,774.6l-1.8-7.1-4.6,2.2 1.8,7.1z"/>
<path color="#70c" d="M252.5,780l-1.9-5.4-4.6,2.2 1.8,5.4z"/>
<path color="#70a" d="M254.4,781.9l-1.9-1.9-4.7,2.2 2,1.9z"/>
<path color="#708" d="M266.7,785.6l-2-.6-2.1-.6-2-.6-2.1-.6-2-.7-2.1-.6-4.6,2.2 2,.7 2.1,.6 2,.7 2.1,.6 2.1,.6 2,.7z"/>
<path color="#f00" d="M149.6,668.2l-.6-4.8-.6-4.7-1.7,1.7-1.8-6.9-.8-3.6-.9-3.7-.8,7.3-.8,7.2-.9-6.5-.9-6.5-.5,4-.6,4.1-.5,4-1.7-2.5-.9-3.1-.8-3-1.7,4-5.2,5.6 1.7-.1 .8,1.2 .9,1.2 1.7-2.6 .5-2 .5-1.9 .6-2 .9,8.8 .9,8.7 .8-7 .8-7 .9-.6 .8-.7 1.8,8.7 1.7,4 .6,2.7 .6,2.7zM158.2,666.6l-.5-7.2-.6-7.1-.9-.5-.9-.4-.6,2.6-.5,2.5-.6,2.6-.9-4.7-.9-4.7-.5,7.8-.6,7.7-5.2,4.9 .6-7.5 .5-7.7 .9,1.6 .9,1.5 .6,1.7 .5,1.7 .6,1.7 .9-4.3 .9-4.4 .6,8.9 .6,8.8zM170.3,673.5l-.8-3.2-.9-4.4-.9-4.3-.6-4.1-.6-4.1-.5-4.1-1,3.9-.9,3.9-.8,1.8-.9,1.9-.9,6.6-5.2,5.9 .9-7.2 .9,1 .9,1 .9-5 .9-5 .6,1.1 .6,1.2 .5,1.1 .9,7.2 .9,7.1 .9-1.3zM178.5,673.3l-1.8-6-1.8-1-.9-1.7-.9-1.7-.6,4.7-.6,4.6-.7,4.6-5.1-3.6 .6-.7 .6-.7 .6-.7 1-2.4 .9-2.4 1.8-1.2 1.8,8.8zM188.4,671.6l-.5-7.3-.7,5-5.2,12.7 .6-1.9 .6,5.3z"/>
<path color="#f20" d="M158.8,673.7l-.6-7.1-5.1,5.5 .6,8.8zM179.4,677.3l-.9-4-5.1,.6 .9,8.1zM187.2,669.3l-.7,5-5.2,9.6 .7-1.9z"/>
<path color="#f60" d="M180.3,681.3l-.9-4-5.1,4.7 .8,8zM201.4,688.1l-.5-5.6-5.1,2.8 .5,6.5z"/>
<path color="#f90" d="M181.4,688.9l-.5-3.8-.6-3.8-5.2,8.7 .6,.3 .6,.3zM197.6,687.1l-.7,4-1.8-3.1-1.9-.6-1.8-2.4-1.9,1.3-.6-7.3-5.2,11.7 .6,5.2 1.9-2.5 1.9-.1 1.9,1.6 1.9-3.1 .6-1.1z"/>
<path color="#f40" d="M186.5,674.3l-.7,5-5.1,6.5 .6-1.9zM188.9,679l-.5-7.4-5.2,13.8 .5,5.3zM200.9,682.5l-1-1.8-.9-1.7-.7,4-5.1,6.6 .6-1.1 1-1.6 1-1.6z"/>
<path color="#fa0" d="M202,693.7l-.6-5.6-5.1,3.7 .6,6.5z"/>
<path color="#fc0" d="M206.3,698.3l-1.8-4.3-2,5.2-.5-5.5-5.1,4.6 .5,6.5 2-6.8 1.8,9z"/>
<path color="#ef0" d="M207.2,703.9l-.9-5.6-5.1,8.7 .9,3.8zM211,705.3l-.8-4.8-1.1,4.5-5,6.2 1-3.4 .9,2.5z"/>
<path color="#df0" d="M209.1,705l-1,4.4-.9-5.5-5.1,6.9 .9,3.9 1.1-3.5zM211.9,710l-.9-4.7-5,5 .9,2.5zM215.9,708l-1.1,1.9-1,2-4.9-.8 1,.7 1,.8z"/>
<path color="#be0" d="M213.8,711.9l-1.9-1.9-5,2.8 2-1.7zM220.6,716.3l-.9-3-2,2.4-1.8-7.7-5,4.6 1.8,7 2.1-6 .8,5.4z"/>
<path color="#8e0" d="M223.4,721.7l-1.9-2.4-.9-3-5,2.7 .9,5.5 2,.4z"/>
<path color="#6e0" d="M228.2,729.9l-.9-5-2,.7-1.9-3.9-4.9,3.2 1.9,1.9 2.1-1.6 .9,4.3z"/>
<path color="#2e1" d="M229.1,735l-.9-5.1-4.8-.4 .9,4.3z"/>
<path color="#0e2" d="M230.9,740.4l-1.8-5.4-4.8-1.2 1.8,6.4z"/>
<path color="#0ed" d="M232.8,743.9l-1.9-3.5-4.8-.2 1.9,4.6z"/>
<path color="#0cf" d="M234.7,749.1l-1.9-5.2-4.8,.9 1.8,8.1z"/>
<path color="#09f" d="M236.6,751.1l-1.9-2-4.9,3.8 2-.5z"/>
<path color="#07f" d="M238.5,757l-1.9-5.9-4.8,1.3 1.9,5.8z"/>
<path color="#02f" d="M240.3,763.9l-1.8-6.9-4.8,1.2 1.8,6.8z"/>
<path color="#00f" d="M242.2,766.1l-1.9-2.2-4.8,1.1 2,3.6z"/>
<path color="#20f" d="M244.2,769.7l-2-3.6-4.7,2.5 1.9,3.4z"/>
<path color="#70d" d="M246,776.8l-1.8-7.1-4.8,2.3 1.8,7z"/>
<path color="#70c" d="M247.8,782.2l-1.8-5.4-4.8,2.2 1.9,5.4z"/>
<path color="#70a" d="M249.8,784.1l-2-1.9-4.7,2.2 2,2z"/>
<path color="#708" d="M262.1,788l-2-.7-2.1-.6-2.1-.6-2-.7-2.1-.6-2-.7-4.7,2.3 2,.7 2.1,.6 2,.7 2.1,.6 2.1,.7 2.1,.6z"/>
<path fill="none" stroke="#8c8c8c" stroke-width=".4" stroke-opacity=".7" d="M247,763.6L237.5,768.6M228.3,718.6L218.5,724.9M209.5,690.1L199.4,698M190.9,672.8L180.7,685.8M172.8,661.8L162.5,661.5M155.2,668.2L145,677.6"/>
<path fill="none" stroke="#4a4a3a" stroke-width=".45" stroke-opacity=".8" d="M257.5,790.3l-2.1-.6-2.1-.7-2.1-.6-2-.7-2.1-.6-2-.7-2-2-1.9-5.4-1.8-7-1.9-3.4-2-3.6-1.8-6.8-1.9-5.8-2,.5-1.8-8.1-1.9-4.6-1.8-6.4-1.8-8.6-2.1,1.6-1.9-1.9-2-.4-1.7-10.9-2.1,6-1.8-7-2-1.5-2,1.7-1.8-5-2.1,6.9-1.8-7.7-1.8-9-2,6.8-1.6-19.5-2,3.2-1.9,3.3-1.9,3.1-1.9-1.6-1.9,.1-1.9,2.5-1.7-15.8-1.9,5.7-1.9,3.2-1.8,2-1.9-1-1.7-16.1-1.8-8.8-1.8,1.2-1.9,4.8-1.8,2.1-1.8,2.6-1.8-14.3-1.7-3.4-1.8,10-1.8-2-1.8,14.3-1.7,.5-1.8-26.5-1.8,8.7-1.7-5.1-1.8-3.1-1.6,22.7-1.8-8.1-1.7-4-1.8-8.7-1.7,1.3-1.6,14-1.8-17.5-1.6,5.9-1.7,2.6-1.7-2.4-1.7,.1"/>
<path color="#f00" d="M135.5,663.4l-.9-8.8-1.6,5.9-1.7,2.6-.9-1.2-.8-1.2-1.7,.1-5.2,3.9 1.6-.2 .8-1.7 .9-1.7 1.6,.2 1.7-1 1,8.4zM143.2,669.5l-1.7-4-.6-2.9-.6-2.9-.6-2.9-.8,.7-.9,.6-.5,4.7-.5,4.7-5.3,3.6 .5-5.9 .5-5.9 .8-3.2 .9-3.1 .6,5 .6,4.9 .6,5 1.8,3.8zM153.1,672.1l-.6-8.8-.6-8.9-.9,4.4-.9,4.3-.8-2.5-.9-2.6-1.8-3.1-.5,7.7-.6,7.5-5.3-1.7 .6-6 .5-6 1.8,1.7 .9,5.1 .9,5.2 .8-5.5 .9-5.6 .6,5.6 .6,5.5zM164.3,675.8l-.6-4.7-.6-4.8-.6-4.8-1.7-3.4-.9,5-.9,5-1.8-2-.9,7.2-5.2,.6 .8-6 1.8,.9 .9-5.2 .9-5.2 1.8,.5 .6,6.5 .6,6.6 .6,6.5zM174,679.3l-.6-5.4-1.8-8.8-1.8,1.2-.6,1.6-.6,1.6-.7,1.6-.9,1-.9,1.1-.9,1.3-5.2,.8 .9-3.1 .9,2.5 .9,2.5 .6-4.2 .6-4.2 .7-4.3 1.8,1 1.8,6.6 .6,6.1z"/>
<path color="#f40" d="M174.6,684.6l-.6-5.3-5.2-1.1 .6,6.1z"/>
<path color="#f90" d="M175.1,690l-.5-5.4-5.2-.3 .6,6.1zM180.7,685.8l-1.9,3.2-1.8,2-5.2-.8 1.9,.3 1.8,1.8zM193.8,688.5l-1.9,3.3-5.1,2 1.9-.6zM196.3,691.8l-.5-6.5-5.2,6.8 .6,4.9z"/>
<path color="#fa0" d="M177,691l-1.9-1-5.1,.4 1.8-.2zM184.3,695.9l-.8-7.9-5.2,6.1 .9,6zM189,694.1l-.9-.8-1.9,.1-.9,1.3-5.2,2.5 1-2.9 1.9-.4 .9,3.5zM196.9,698.3l-.6-6.5-5.1,5.2 .6,4.9z"/>
<path color="#f60" d="M183.5,688l-.9-7.9-1.9,5.7-5.2,6.5 1.9-4.2 .9,6zM195.8,685.3l-2,3.2-5.1,4.7 1.9-1.1z"/>
<path color="#fc0" d="M190.9,693.4l-.9,1.5-1-.8-5.1,3.3 .9,3.4 1-3.5z"/>
<path color="#fe0" d="M201.2,707l-1.8-9-2,6.8-.5-6.5-5.1,3.6 .5,4.9 2.1-6.9 1.8,4.4z"/>
<path color="#ef0" d="M202.1,710.8l-.9-3.8-5-2.7 .9,5.2z"/>
<path color="#be0" d="M203,714.7l-.9-3.9-5-1.3 .9,5.2zM210.9,712.6l-2-1.5-2,1.7-.9-2.5-5.1,3.4 .9,4.5 2-1.6 2,1.3z"/>
<path color="#df0" d="M206,710.3l-.9-2.5-2.1,6.9-5,0 2-5.5 .9,4.5z"/>
<path color="#9e0" d="M215.6,719l-.8-5.4-2.1,6-1.8-7-5.1,5.3 1.9,2.3 2-3.3 .9,5.2z"/>
<path color="#8e0" d="M216.5,724.5l-.9-5.5-5,3.1 .9,5.3z"/>
<path color="#6e0" d="M222.5,725.2l-2.1,1.6-1.9-1.9-2-.4-5,2.9 2,.3 1.9,1.7 2,.2z"/>
<path color="#4e0" d="M224.3,733.8l-1.8-8.6-5.1,4.4 1.9,5.9z"/>
<path color="#0e2" d="M226.1,740.2l-1.8-6.4-5,1.7 1.8,8.1z"/>
<path color="#0ed" d="M228,744.8l-1.9-4.6-5,3.4 1.9,5.8z"/>
<path color="#0cf" d="M229.8,752.9l-1.8-8.1-5,4.6 1.9,4.9z"/>
<path color="#09f" d="M231.8,752.4l-2,.5-4.9,1.4 2,1z"/>
<path color="#07f" d="M233.7,758.2l-1.9-5.8-4.9,2.9 1.9,5.2z"/>
<path color="#02f" d="M235.5,765l-1.8-6.8-4.9,2.3 1.9,6.3z"/>
<path color="#00f" d="M237.5,768.6l-2-3.6-4.8,1.8 1.9,3.3z"/>
<path color="#20f" d="M239.4,772l-1.9-3.4-4.9,1.5 2,3.7z"/>
<path color="#70d" d="M241.2,779l-1.8-7-4.8,1.8 1.8,6.8z"/>
<path color="#70c" d="M243.1,784.4l-1.9-5.4-4.8,1.6 1.9,5.9z"/>
<path color="#70a" d="M245.1,786.4l-2-2-4.8,2.1 2,2.2z"/>
<path color="#708" d="M257.5,790.3l-2.1-.6-2.1-.7-2.1-.6-2-.7-2.1-.6-2-.7-4.8,2.3 2,.7 2.1,.7 2.1,.6 2,.7 2.1,.7 2.1,.6z"/>
<path color="#f00" d="M130.3,668.7l-1-8.4-1.7,1-1.6-.2-.9,1.7-.8,1.7-1.6,.2-5.4,4 1.7-.4 .8-4.6 .7-4.6 1.8,2.9 1.7,4 .9,8zM149.3,676.9l-.9-3-.6-5.5-.6-5.5-.6-5.6-.9,5.6-.8,5.5-.9-5.2-.9-5.1-1.8-1.7-.5,6-.6,6-.5,5.9-1.7-2.6-1.8-3.8-.6-5-.6-4.9-.6-5-.9,3.1-.8,3.2-.5,5.9-.5,5.9-5.3,3.7 .4-7.1 .5-7.3 .8-5.6 .8-5.8 .7,7.1 .6,7.1 .7,7.1 1.7,3.6 1.7-3 .6-4.3 .5-4.3 .6-4.4 1.7,.2 .9,7.8 1,7.8 .8-6.7 .8-6.7 .6,2.2 .6,2.1 .6,2.2 1,6.3zM159.1,678.5l-.6-6.5-.6-6.6-.6-6.5-1.8-.5-.9,5.2-.9,5.2-1.8-.9-.8,6-5.4,.7 .9-5 1.8-.1 .9-5.4 .9-5.5 1.8-2.3 .6,8.3 .6,8.3 .6,8.2zM168.8,678.2l-.6-6.1-1.8-6.6-1.8-1-.7,4.3-.6,4.2-5.3,3.5 .6-6.9 .7-6.9 1.8,3.2 1.8,4.3 .6,6.9z"/>
<path color="#f20" d="M169.4,684.3l-.6-6.1-5.3-1.1 .6,6.9z"/>
<path color="#f60" d="M170,690.4l-.6-6.1-5.3-.3 .6,6.8z"/>
<path color="#f90" d="M173.7,690.5l-1.9-.3-1.8,.2-5.3,.4 1.9-1.4 1.8,2.6z"/>
<path color="#fa0" d="M178.3,694.1l-.9-6-1.9,4.2-1.8-1.8-5.3,1.5 1.8,6.8 1.9-2.6 .9,4.1zM183.9,697.4l-.9-3.5-1.9,.4-1,2.9-5.2,2.6 1-4.6 1.9-.6 .9,6.1zM191.2,697l-.6-4.9-1.9,1.1-1.9,.6-1,3.5-5.2,4 1-5.5 1.8,2.2 2,1 .6,3.3z"/>
<path color="#fe0" d="M180.1,697.2l-.9,2.9-.9-6-5.3,6.2 .9,4.1 1-4.6zM185.8,697.3l-1,3.5-.9-3.4-5.2,3.3 .9,6.1 1-5.5zM197.1,709.5l-.9-5.2-5.1-2.8 .9,6.6z"/>
<path color="#fc0" d="M191.8,701.9l-.6-4.9-5.2,5.3 .6,3.3zM196.2,704.3l-1.8-4.4-5.2,1.8 1.9-.2z"/>
<path color="#df0" d="M200.9,713.7l-.9-4.5-2,5.5-.9-5.2-5.1-1.4 .9,6.6 2-4.1 .9,6.5z"/>
<path color="#9e0" d="M210.6,722.1l-.9-5.2-2,3.3-1.9-2.3-2-1.3-2,1.6-.9-4.5-5.1,3.4 .9,6.6 1.9-1.6 2,1.3 2-2.7 2-.5 .9,5.1z"/>
<path color="#8e0" d="M211.5,727.4l-.9-5.3-5.1,3.2 .9,5z"/>
<path color="#6e0" d="M215.4,729.4l-1.9-1.7-2-.3-5.1,2.9 2,.2 2,1.5z"/>
<path color="#4e0" d="M219.3,735.5l-1.9-5.9-2-.2-5,2.6 1.9,2.2 2,3.1z"/>
<path color="#0e2" d="M221.1,743.6l-1.8-8.1-5,1.8 1.8,9.8z"/>
<path color="#0ed" d="M223,749.4l-1.9-5.8-5,3.5 1.8,6.9z"/>
<path color="#09f" d="M226.9,755.3l-2-1-1.9-4.9-5.1,4.6 2,1.6 2,2.5z"/>
<path color="#07f" d="M228.8,760.5l-1.9-5.2-5,2.8 1.9,4.7z"/>
<path color="#02f" d="M230.7,766.8l-1.9-6.3-5,2.3 1.9,5.7z"/>
<path color="#00f" d="M232.6,770.1l-1.9-3.3-5,1.7 2,3.1z"/>
<path color="#20f" d="M234.6,773.8l-2-3.7-4.9,1.5 1.9,4z"/>
<path color="#50e" d="M236.4,780.6l-1.8-6.8-5,1.8 1.9,6.6z"/>
<path color="#70c" d="M238.3,786.5l-1.9-5.9-4.9,1.6 1.9,6.6z"/>
<path color="#70a" d="M240.3,788.7l-2-2.2-4.9,2.3 2,2.3z"/>
<path color="#708" d="M252.7,792.7l-2.1-.6-2.1-.7-2-.7-2.1-.6-2.1-.7-2-.7-4.9,2.4 2.1,.7 2,.7 2.1,.6 2.1,.7 2.1,.7 2.1,.6z"/>
<path fill="none" stroke="#8c8c8c" stroke-width=".4" stroke-opacity=".7" d="M237.5,768.6L227.7,771.6M218.5,724.9L208.4,730.5M199.4,698L189.2,701.7M180.7,685.8L170.2,698.8M162.5,661.5L152,656.3M145,677.6L134.3,670.9"/>
<path fill="none" stroke="#4a4a3a" stroke-width=".45" stroke-opacity=".8" d="M247.9,795.1l-2.1-.6-2.1-.7-2.1-.7-2.1-.6-2-.7-2.1-.7-2-2.3-1.9-6.6-1.9-6.6-1.9-4-2-3.1-1.9-5.7-1.9-4.7-2-2.5-2-1.6-1.8-6.9-1.8-9.8-2-3.1-1.9-2.2-2-1.5-2-.2-1.8-10.1-2,.5-2,2.7-2-1.3-1.9,1.6-1.8-13.1-2,4.1-1.8-13.2-1.9,.2-2,7.2-1.8-9.9-2-1-1.8-2.2-2,11-1.8-12.2-1.9,.6-2,9.2-1.8-8.2-1.9,2.6-1.8-6.8-1.8-2.6-1.9,1.4-1.8-20.6-1.8-4.3-1.8-3.2-1.9,20.6-1.8-12-1.8,9.8-1.8-24.8-1.8,2.3-1.8,10.9-1.8,.1-1.7,9.9-1.9-12.7-1.8-6.5-1.6,13.4-1.9-15.6-1.7-.2-1.7,13-1.7,3-1.7-3.6-2-21.3-1.6,11.4-1.4,21.5-1.9-15.9-1.7-4-1.8-2.9-1.5,9.2-1.7,.4"/>
<path color="#f00" d="M124.6,671.3l-.6-5.3-1.7-4-1.8-2.9-.7,4.6-.8,4.6-.9,.2-.8,.2-5.4,3.1 .8-2.6 .8-2.6 .8-.9 .8-1 1.7-.1 1.7,2.5 .7,6.3zM153.2,672.9l-.6-8.3-.6-8.3-1.8,2.3-.9,5.5-.9,5.4-.6,0-.6,.1-.6,0-.9,5-.8,4.9-.9-6.4-1-6.3-1.8-6.5-.8,6.7-.8,6.7-1-7.8-.9-7.8-1.7-.2-.9,6.6-.8,6.4-.8,1.5-.9,1.5-.9-1.8-.8-1.8-.7-7.1-.6-7.1-.7-7.1-.8,5.8-.8,5.6-.5,7.3-.4,7.1-5.5,3.3 .5-8.1 .5-8.2 .8-2.6 .8-2.7 .6,4.2 .7,4.3 .6,4.2 .9,3.4 .9,3.3 .8-3.6 .9-3.6 .8-2.1 .8-2.1 1.8-3.9 .9,3.8 .9,3.8 .8-2.7 .9-2.7 1.8,6.4 .9,4.2 1,4.3 .8-5.9 .9-5.9 .6,3.9 .6,4 .6,3.9 .9-7 .8-7.1 1.8-4.3 .7,8.3 .6,8.2zM164.1,684l-.6-6.9-.6-6.9-1.8-4.3-1.8-3.2-.7,6.9-.6,6.9-5.4,.4 .7-6.4 .6-6.4 1.8,5.5 1.9-.5 .6,5.2 .6,5.2z"/>
<path color="#f40" d="M164.7,690.8l-.6-6.8-5.3-4.5 .6,5.2z"/>
<path color="#f60" d="M168.4,692l-1.8-2.6-1.9,1.4-5.3-6.1 1.8,2.5 1.9,3.4z"/>
<path color="#f90" d="M169.3,695.4l-.9-3.4-5.3-1.4 .9,5.2z"/>
<path color="#fc0" d="M171.2,697.5l-1,1.3-.9-3.4-5.3,.4 .9,5.1 1-4.4zM179,702.7l-.6-4-5.3,.4 .6,5.5zM185.4,699l-2-1-5.3,5.5 1.9,2.9zM191.1,701.5l-1.9,.2-5.3,4.7 1.9,.8z"/>
<path color="#fa0" d="M173,700.3l-.9-4.1-.9,1.3-5.3-1 .9-4.5 .9,6.7zM178.4,698.7l-.6-4.1-5.3-1 .6,5.5zM183.4,698l-1.8-2.2-5.4,5 1.9,2.7z"/>
<path color="#fe0" d="M174.9,699.8l-1,4.6-.9-4.1-5.3-1.6 .9,6.7 1-1.8zM187.2,708.9l-1.8-9.9-5.4,7.4 1.9,8.1zM192,708.1l-.9-6.6-5.3,5.7 .9,5.2z"/>
<path color="#ef0" d="M179.6,706.8l-.6-4.1-5.3,1.9 .6,5.4z"/>
<path color="#df0" d="M195.8,717.1l-.9-6.5-2,4.1-.9-6.6-5.3,4.3 1,5.2 2-5 .9,6.5z"/>
<path color="#9e0" d="M196.7,723.7l-.9-6.6-5.2,2 .9,6.5zM199.6,722.8l-1-.7-1,.8-5.1-.3 1-3.1 .9,3.4zM205.5,725.3l-.9-5.1-2,.5-2,2.7-5.2,2.8 2-2.5 2-1.7 .9,4.9z"/>
<path color="#8e0" d="M200.6,723.4l-1-.6-5.2,.1 1,3.3z"/>
<path color="#6e0" d="M206.4,730.3l-.9-5-5.2,1.6 .9,5z"/>
<path color="#4e0" d="M211.3,733.1l-.9-1.1-2-1.5-2-.2-5.2,1.6 2,2.6 2-1.5 1,4z"/>
<path color="#2e1" d="M214.3,737.3l-2-3.1-1-1.1-5.1,3.9 .9,3.9 2-.8z"/>
<path color="#0e2" d="M216.1,747.1l-1.8-9.8-5.2,2.8 1.9,9.1z"/>
<path color="#0cf" d="M217.9,754l-1.8-6.9-5.1,2.1 1.8,8.4z"/>
<path color="#09f" d="M221.9,758.1l-2-2.5-2-1.6-5.1,3.6 2.1,.1 2,1.9z"/>
<path color="#07f" d="M223.8,762.8l-1.9-4.7-5,1.5 1.9,5.2z"/>
<path color="#02f" d="M225.7,768.5l-1.9-5.7-5,2 1.9,6.1z"/>
<path color="#00f" d="M227.7,771.6l-2-3.1-5,2.4 2,2.7z"/>
<path color="#20f" d="M229.6,775.6l-1.9-4-5,2 2,3.5z"/>
<path color="#50e" d="M231.5,782.2l-1.9-6.6-4.9,1.5 1.8,7z"/>
<path color="#70c" d="M233.4,788.8l-1.9-6.6-5,1.9 1.9,6.9z"/>
<path color="#70a" d="M235.4,791.1l-2-2.3-5,2.2 2,2.5z"/>
<path color="#708" d="M247.9,795.1l-2.1-.6-2.1-.7-2.1-.7-2.1-.6-2-.7-2.1-.7-5,2.4 2.1,.7 2.1,.7 2.1,.7 2.1,.7 2.1,.6 2.1,.7z"/>
<path color="#f00" d="M119.2,673.4l-.7-6.3-1.7-2.5-1.7,.1-.8,1-.8,.9-.8,2.6-.8,2.6-5.5,3.1 .7-5 .8-5 .8,2.8 .9,2.7 1.7-3.2 1.7,.9 .7,7.4zM142.4,673.8l-.6-4-.6-3.9-.9,5.9-.8,5.9-1-4.3-.9-4.2-1.8-6.4-.9,2.7-.8,2.7-.9-3.8-.9-3.8-1.8,3.9-.8,2.1-.8,2.1-.9,3.6-.8,3.6-.9-3.3-.9-3.4-.6-4.2-.7-4.3-.6-4.2-.8,2.7-.8,2.6-.5,8.2-5.5,2.3 .4-9.1 .9,.4 .8,.4 .6,1.4 .6,1.4 .6,1.4 1,4.9 .9,4.8 .8-5.7 .8-5.7 .9,2.3 .9,2.4 1.6-8.1 .9-.2 .9-.2 .9,1.3 .9,1.3 1.8,6.3 .9,2.2 .9,2.1 .9-6.9 .8-6.9 .7,8 .6,8zM147.8,675.8l-.6-8.2-.7-8.3-1.8,4.3-.8,7.1-.9,7-5.4,8.3 .8-8.7 .9-8.7 1.7-6.2 .7,8.2 .6,8.3zM152.1,683.3l-1-7.8-.9-7.8-.6,5.5-.6,5.4-5.5,.9 .6-7.7 .6-7.8 .9,9.7 1,9.5zM159.4,684.7l-.6-5.2-.6-5.2-.6-5.2-1.9,.5-1.8-5.5-.6,6.4-.7,6.4-5.4,.5 .6-5.9 .6-6 1.8,7.8 1.9-5.3 .6,3.5 .6,3.4 .6,3.5z"/>
<path color="#f20" d="M143,677.7l-.6-3.9-5.5,4.3 .7,7.9zM149,678.6l-.6,5.5-.6-8.3-5.5,3.1 .7,8.2 .5-7.6zM161.2,687.2l-1.8-2.5-5.5-6.3 1.9,6.5z"/>
<path color="#f40" d="M163.1,690.6l-1.9-3.4-5.4-2.3 1.9,4.3z"/>
<path color="#f90" d="M164,695.8l-.9-5.2-5.4-1.4 .9,6.9zM167.7,698.7l-.9-6.7-.9,4.5-5.4-1.1 .9-7.7 1,9.3zM173.1,699.1l-.6-5.5-1,4.1-5.4,2.8 1-8 .6,7z"/>
<path color="#fc0" d="M164.9,700.9l-.9-5.1-5.4,.3 .9,7zM168.6,705.4l-.9-6.7-5.3-1.7 .9,9.3zM173.7,704.6l-.6-5.5-5.4,.4 .6,6.9z"/>
<path color="#ef0" d="M175.3,705.5l-1,4.5-.6-5.4-5.4,1.8 .6,6.9 1-3.6zM186.7,712.4l-.9-5.2-5.3,5.8 .9,3.8z"/>
<path color="#fe0" d="M180,706.4l-1.9-2.9-1.9-2.7-.9,4.7-5.4,4.2 1-3.7 1.9,3.1 1.8,4.7zM185.8,707.2l-1.9-.8-5.4,4.6 2,2z"/>
<path color="#df0" d="M183.9,706.4l-2,8.1-1.9-8.1-5.4,7.4 1.9,6.4 2-9.2zM190.6,719.1l-.9-6.5-2,5-1-5.2-5.3,4.4 .9,3.7 2-5.9 1,6.5z"/>
<path color="#9e0" d="M192.5,722.6l-1,3-.9-6.5-5.3,2 .9,6.5 1-5.4zM195.4,726.2l-1-3.3-5.2,0 .9,6.2zM200.3,726.9l-.9-4.9-2,1.7-5.3,3 2-2.9 1,4.9z"/>
<path color="#be0" d="M194.4,722.9l-.9-3.4-1,3.1-5.3-.4 1.1-5.4 .9,6.1z"/>
<path color="#6e0" d="M201.2,731.9l-.9-5-5.2,1.8 .9,4.8z"/>
<path color="#4e0" d="M206.2,737l-1-4-2,1.5-2-2.6-5.2,1.6 1.9,5 2.1-4.4 .9,6.8z"/>
<path color="#0e2" d="M209.1,740.1l-2,.8-.9-3.9-5.3,3.9 .9,6.8 2.1-4.8z"/>
<path color="#0e7" d="M211,749.2l-1.9-9.1-5.2,2.8 1.9,8.4z"/>
<path color="#0cf" d="M212.8,757.6l-1.8-8.4-5.2,2.1 1.8,9.9z"/>
<path color="#09f" d="M216.9,759.6l-2-1.9-2.1-.1-5.2,3.6 2.1-1.4 2,1.4z"/>
<path color="#07f" d="M218.8,764.8l-1.9-5.2-5.2,1.6 2,5.5z"/>
<path color="#02f" d="M220.7,770.9l-1.9-6.1-5.1,1.9 1.9,6.6z"/>
<path color="#00f" d="M222.7,773.6l-2-2.7-5.1,2.4 2,2.4z"/>
<path color="#20f" d="M224.7,777.1l-2-3.5-5.1,2.1 2,2.8z"/>
<path color="#50e" d="M226.5,784.1l-1.8-7-5.1,1.4 1.9,7.4z"/>
<path color="#70c" d="M228.4,791l-1.9-6.9-5,1.8 1.9,7.4z"/>
<path color="#70a" d="M230.4,793.5l-2-2.5-5,2.3 2,2.6z"/>
<path color="#708" d="M243,797.6l-2.1-.7-2.1-.6-2.1-.7-2.1-.7-2.1-.7-2.1-.7-5,2.4 2.1,.8 2,.7 2.1,.7 2.1,.7 2.1,.7 2.2,.6z"/>
<path fill="none" stroke="#8c8c8c" stroke-width=".4" stroke-opacity=".7" d="M227.7,771.6L217.6,775.7M208.4,730.5L197.9,738.5M189.2,701.7L178.5,711M170.2,698.8L159.5,703.1M152,656.3L141,662.4M134.3,670.9L123.3,666.5"/>
<path fill="none" stroke="#4a4a3a" stroke-width=".45" stroke-opacity=".8" d="M238,800.1l-2.2-.6-2.1-.7-2.1-.7-2.1-.7-2-.7-2.1-.8-2-2.6-1.9-7.4-1.9-7.4-2-2.8-2-2.4-1.9-6.6-2-5.5-2-1.4-2.1,1.4-1.8-9.9-1.9-8.4-2.1,4.8-1.8-13.6-2.1,4.4-1.9-5-1.9-9.7-2,2.9-2,2.4-1.8-12.3-2.1,10.8-1.9-13-2,5.9-1.8-7.5-2-2-2,9.2-1.9-6.4-1.8-4.7-1.9-3.1-2,7.3-1.8-20.8-2,16-1.8-2.2-1.9-18.6-1.9,15.4-1.8-13.9-1.9-4.3-1.9-6.5-1.8-10.4-1.9,5.3-1.8-7.8-1.8,17.7-1.9-19.2-1.7,23.1-2-24.7-1.7,6.2-1.7,17.4-2-23.9-1.7,13.8-1.8-4.3-1.8-6.3-1.8-2.6-1.8,.4-1.6,8.1-1.8-4.7-1.6,11.4-1.9-9.7-1.8-4.2-1.7-.8-1.3,27.1-2-22.2-1.7-.9-1.7,3.2-1.7-5.5-1.5,10"/>
<path color="#f00" d="M113.7,675.5l-.7-7.4-1.7-.9-1.7,3.2-1.7-5.5-.8,5-.7,5-5.7-2 .7-2.9 .8-2.8 1.8,6.3 1.7-1.1 1.7,1.7 .7,6.6zM120.8,673.1l-1-4.9-1.8-4.2-1.7-.8-.4,9.1-5.6,6.5 .5-7.7 1.7-2.9 1.8,5.9 .9,2.6zM136.9,678.1l-.6-8-.7-8-.8,6.9-.9,6.9-.9-2.1-.9-2.2-1.8-6.3-.9-1.3-.9-1.3-1.8,.4-1.6,8.1-.9-2.4-.9-2.3-.8,5.7-5.6,5.7 .9-1.4 .8-1.3 .9-1.3 1.6-6.6 1.8-.5 .9,3.7 1,3.7 1.8,5.7 .9-2.1 .8-2.1 .8-7.6 .9-7.6 .7,9.4 .6,9.4zM142.3,678.9l-.6-8.3-.7-8.2-.9,3.1-.8,3.1-.9,8.7-5.5,5 .8-6.5 .9-5.5 .8-5.6 .7,8.4 .7,8.3zM146.6,683.2l-1-9.5-.9-9.7-.6,7.8-.6,7.7-5.5,4.7 .6-5.5 .5-5.6 1,6.9 1,6.8zM153.9,678.4l-.9-5.2-.9-5.2-1,2.7-.9,2.6-1.8-7.8-.9,8.9-5.6,8.1 .9-4.4 1.9,6.5 .9-5.1 .9-5.1 1,4.3 .9,4.3z"/>
<path color="#f20" d="M122.5,672.2l-.8,5.7-.9-4.8-5.6,3.6 .9,2.6 .8-1.4zM155.8,684.9l-1.9-6.5-5.5,4.6 1.9,3.8z"/>
<path color="#f40" d="M138.4,677.3l-.8,8.7-.7-7.9-5.6,1.2 .7,9.4 .9-6.4zM143.5,679.5l-.5,7.6-.7-8.2-5.5,2.5 .6,8.3 .6-5.5zM156.7,687.1l-.9-2.2-5.5,1.9 .9,3.9z"/>
<path color="#f60" d="M157.7,689.2l-1-2.1-5.5,3.6 1,3.9z"/>
<path color="#f90" d="M158.6,696.1l-.9-6.9-5.5,5.4 .9,3.7zM162.4,697l-1-9.3-.9,7.7-5.5,3.2 .9-3.3 1,6.3z"/>
<path color="#fa0" d="M160.5,695.4l-1,7.7-.9-7-5.5,2.2 .9,3.6 1-3.3zM167.7,699.5l-.6-7-1,8-5.5,4.8 1-5.2 .6,3.4z"/>
<path color="#fc0" d="M163.3,706.3l-.9-9.3-5.5,4.6 .9,6.3zM168.3,706.4l-.6-6.9-5.5,4 .7,3.5z"/>
<path color="#ef0" d="M172.8,709.1l-1.9-3.1-2,7.3-.6-6.9-5.4,.6 .6,3.4 1.9-.9 1.9,5.5zM180.5,713l-2-2-5.4,2.1 1.9,1.1z"/>
<path color="#df0" d="M178.5,711l-2,9.2-1.9-6.4-1.8-4.7-5.5,5.9 1.9,2.4 1.9-.6 2-3.7zM181.4,716.8l-.9-3.8-5.5,1.2 1,6.4zM185.3,721.1l-1-6.5-1,3-5.4,4.8 1-4.6 1,5.5z"/>
<path color="#be0" d="M183.3,717.6l-1,2.9-.9-3.7-5.4,3.8 .9,6.3 1-4.5zM189.2,722.9l-.9-6.1-1.1,5.4-5.4,3.1 1-3.6 1,5.4z"/>
<path color="#9e0" d="M187.2,722.2l-1,5.4-.9-6.5-5.4,2.2 .9,5.5 1-3.5z"/>
<path color="#8e0" d="M192.1,726.7l-2,2.4-.9-6.2-5.4,4.2 .9,5.3 2-.9zM196,733.5l-1.9-9.7-5.3,3.7 1.9,5.9z"/>
<path color="#4e0" d="M200.9,740.9l-.9-6.8-2.1,4.4-1.9-5-5.3-.1 1.9,7.3 2.1-2.9 .9,5.9z"/>
<path color="#0e2" d="M203.9,742.9l-2.1,4.8-.9-6.8-5.3,2.8 .9,5.9 2.1-2.9z"/>
<path color="#0e7" d="M205.8,751.3l-1.9-8.4-5.3,3.8 1.9,5.8z"/>
<path color="#0ed" d="M206.7,756.2l-.9-4.9-5.3,1.2 1,5.5z"/>
<path color="#09f" d="M211.7,761.2l-2-1.4-2.1,1.4-.9-5-5.2,1.8 .9,5.4 2.1-2.8 2,1.7z"/>
<path color="#07f" d="M213.7,766.7l-2-5.5-5.2,1.1 1.9,5.9z"/>
<path color="#02f" d="M215.6,773.3l-1.9-6.6-5.3,1.5 2,6.8z"/>
<path color="#00f" d="M217.6,775.7l-2-2.4-5.2,1.7 2,3.7z"/>
<path color="#20f" d="M219.6,778.5l-2-2.8-5.2,3 2,2.9z"/>
<path color="#50e" d="M221.5,785.9l-1.9-7.4-5.2,3.1 1.9,7.7z"/>
<path color="#70c" d="M223.4,793.3l-1.9-7.4-5.2,3.4 1.9,6.9z"/>
<path color="#70a" d="M225.4,795.9l-2-2.6-5.2,2.9 2.1,2.3z"/>
<path color="#708" d="M238,800.1l-2.2-.6-2.1-.7-2.1-.7-2.1-.7-2-.7-2.1-.8-5.1,2.6 2,.7 2.1,.7 2.1,.7 2.1,.7 2.1,.7 2.2,.7z"/>
<path color="#f00" d="M107.4,674.1l-1.7-1.7-1.7,1.1-1.8-6.3-.8,2.8-.7,2.9-5.8-2.1 .8-.6 .8-.7 1.9,7.2 1.7,1 1.7,2.4zM114.3,674.1l-1.8-5.9-1.7,2.9-5.6,8 1.6-6.7 1.9,7.8zM124.8,674.2l-1-3.7-.9-3.7-1.8,.5-1.6,6.6-.9,1.3-5.6,6.5 .8-5 1.7-5.1 1.7-.6 1,6.1 1,6.1zM131.3,679.3l-.6-9.4-.7-9.4-.9,7.6-.8,7.6-.8,2.1-5.7,4.2 .8-6.4 .8-8.4 .8-8.4 .7,10.9 .8,10.9zM136.8,681.4l-.7-8.3-.7-8.4-.8,5.6-.9,5.5-5.6,7.3 .8-7.9 .8-8.1 .7,8.5 .7,8.4zM140.1,680l-1-6.9-.5,5.6-5.6,6.9 .5-3.4 1,4.1zM148.4,683l-.9-4.3-1-4.3-.9,5.1-5.6,9 .9-7.5 .9,3.4 1,3.4z"/>
<path color="#f40" d="M108.1,680.7l-.7-6.6-5.6,6 .7,5.8zM132.9,682.3l-.9,6.4-.7-9.4-5.6,1.3 .7,10.8 .8-4.1zM137.4,689.7l-.6-8.3-5.7,2.6 .7,8.4zM145.6,679.5l-.9,5.1-1.9-6.5-5.5,12.7 1.8,5.2 .9-7.5zM151.2,690.7l-.9-3.9-5.6,1.9 .9,5.7z"/>
<path color="#f20" d="M118.6,675.2l-.8,1.3-.9,1.4-.8,1.4-.9-2.6-.9-2.6-5.6,6.1 .8,.2 .9,.3 .9,3 .9,2.9 .8-4.9zM127.5,677.8l-.9,2.1-1.8-5.7-5.6,9 1.8,5.1 .8-6.3zM141.1,686.8l-1-6.8-5.6,6.3 .9,4.1zM142.8,678.1l-.9,4.4-5.6,8.1 1,.2zM150.3,686.8l-1.9-3.8-5.6,4.8 1.9,.9z"/>
<path color="#f60" d="M152.2,694.6l-1-3.9-5.6,3.7 1,5.6z"/>
<path color="#f90" d="M153.1,698.3l-.9-3.7-5.6,5.4 .9,.4z"/>
<path color="#fa0" d="M156.9,701.6l-1-6.3-.9,3.3-1,3.3-.9-3.6-5.6,2.1 1,.4 .9,1.1 .9,1.2 1,3.2z"/>
<path color="#fe0" d="M157.8,707.9l-.9-6.3-5.6,4.7 .9,3.3zM165.4,709.5l-1.9,.9-.6-3.4-5.6,.5 .6-.1 1.9,5.7z"/>
<path color="#fc0" d="M162.9,707l-.7-3.5-.6-3.4-1,5.2-5.5,4.8 .9-2.4 .7-.1 .6-.1z"/>
<path color="#ef0" d="M167.3,715l-1.9-5.5-5.6,3.6 2,7.9zM175,714.2l-1.9-1.1-2,3.7-5.5-3.5 2,1.8 1.9,.3z"/>
<path color="#df0" d="M176,720.6l-1-6.4-5.5,1.2 1,9z"/>
<path color="#9e0" d="M176.9,726.9l-.9-6.3-5.5,3.8 .9,9zM183.8,727.1l-1-5.4-1,3.6-1,3.5-.9-5.5-5.5,2.2 .9,4.5 1-1.6 1-1.6 1,4.5z"/>
<path color="#be0" d="M179.9,723.3l-1-5.5-1,4.6-5.5,4.9 1-6.2 1,4.4z"/>
<path color="#8e0" d="M184.7,732.4l-.9-5.3-5.5,4.2 1,4.5zM190.7,733.4l-1.9-5.9-2.1,4-5.5,4.8 2.1-5 2,2z"/>
<path color="#6e0" d="M186.7,731.5l-2,.9-5.4,3.4 1.9,.5zM192.6,740.7l-1.9-7.3-5.4-.1 1.9,9.5z"/>
<path color="#2e1" d="M195.6,743.7l-.9-5.9-5.5,3.8 1,4.9z"/>
<path color="#0e2" d="M196.5,749.6l-.9-5.9-5.4,2.8 .9,4.9z"/>
<path color="#0e7" d="M200.5,752.5l-1.9-5.8-2.1,2.9-5.4,1.8 2.1-.8 2,3.2z"/>
<path color="#0ed" d="M201.5,758l-1-5.5-5.3,1.3 .9,5.9z"/>
<path color="#09f" d="M206.5,762.3l-2-1.7-2.1,2.8-.9-5.4-5.4,1.7 .9,5.9 2.2-4.1 2,2z"/>
<path color="#07f" d="M208.4,768.2l-1.9-5.9-5.3,1.2 1.9,6.2z"/>
<path color="#05f" d="M210.4,775l-2-6.8-5.3,1.5 2,7.1z"/>
<path color="#00f" d="M212.4,778.7l-2-3.7-5.3,1.8 2,4.9z"/>
<path color="#20f" d="M214.4,781.6l-2-2.9-5.3,3 2,2.9z"/>
<path color="#50e" d="M216.3,789.3l-1.9-7.7-5.3,3 1.9,8.2z"/>
<path color="#70c" d="M218.2,796.2l-1.9-6.9-5.3,3.5 2,6.3z"/>
<path color="#70a" d="M220.3,798.5l-2.1-2.3-5.2,2.9 2,1.9z"/>
<path color="#708" d="M232.9,802.7l-2.2-.7-2.1-.7-2.1-.7-2.1-.7-2.1-.7-2-.7-5.3,2.5 2.1,.8 2.1,.7 2.1,.7 2.1,.7 2.2,.7 2.1,.7z"/>
<path fill="none" stroke="#8c8c8c" stroke-width=".4" stroke-opacity=".7" d="M217.6,775.7L207.1,781.7M197.9,738.5L187.2,742.8M178.5,711L167.6,715.1M159.5,703.1L148.5,700.8M141,662.4L129.7,667.1M123.3,666.5L112.2,686.6"/>
<path fill="none" stroke="#4a4a3a" stroke-width=".45" stroke-opacity=".8" d="M227.7,805.3l-2.1-.7-2.2-.7-2.1-.7-2.1-.7-2.1-.7-2.1-.8-2-1.9-2-6.3-1.9-8.2-2-2.9-2-4.9-2-7.1-1.9-6.2-2-2-2.2,4.1-1.8-11.8-2-3.2-2.1,.8-1.9-9.8-2,1.2-1.9-9.5-2-2-2.1,5-1.9-.5-2-9-2,3.2-1.9-8.9-2,12.3-1.9-18-1.9-.3-2-1.8-1.9,7.8-1.9-.1-2-7.9-1.9-5.7-1.9,.3-1.9,4.8-1.9-2.9-1.9-6.5-1.8-2.3-1.9-.8-1.9-11.3-1.9-.9-1.9-6.8-1.8,15-1.8-5.2-1.9-.4-1.9-8.2-1.7,10.2-2.1-25.3-1.6,16-1.7,8.3-2.2-32.6-1.6,16.8-1.6,12.7-1.8-5.1-2-12.2-1.7,.6-1.7,5.1-1.6,9.9-1.8-5.9-1.7-.5-1.9-7.8-1.6,6.7-1.3,18.4-2.1-17.4-1.7-2.4-1.7-1-1.9-7.2-1.6,1.3"/>
<path color="#f00" d="M97.7,674.3l-.6-2.4-.6-2.4-1.6,1.3-5.8,5.7 1.6-4.9 .7,4.4 .6,4.5zM118.2,677.1l-1-6.1-.8,.3-.9,.3-1.7,5.1-5.7,8.4 1.7-2.6 .9-3 .8-2.9 1,6.9zM125.7,680.6l-.8-10.9-.7-10.9-.8,8.4-.8,8.4-.8,6.4-5.7,4.2 .8-3.5 .8-6.9 .8-7 .7,6.6 .7,6.5zM130.4,675.6l-.7-8.5-.8,8.1-.8,7.9-5.7,3.2 .8-2.8 .9-2.9 .7,6.4z"/>
<path color="#f20" d="M100.9,678.9l-.8-1.2-.9-.5-.8-.5-.7-2.4-5.7,6.2 .7,4.4 .8-3 .8-3 .9,4.9zM108.7,680.2l-1.9-7.8-1.6,6.7-5.8,3.1 1.8,0 1.7,2zM119.2,683.2l-1-6.1-5.7,6.4 1,6.9zM126.4,691.4l-.7-10.8-5.8,1.3 .7,6.5zM131.1,684l-.7-8.4-5.6,11.4 .7,6.4zM142.8,687.8l-1.9-6.8-.9,7.5-5.7,5.4 .9-5.5 1.9,.7z"/>
<path color="#f40" d="M101.8,680.1l-.9-1.2-5.7,4.9 1,4.8zM111.3,683.7l-.9-3-1.7-.5-5.8,4 1.8,1.9 .9,5.2zM144,688.4l-.6-.3-.6-.3-5.7,1.3 .6,3.7 .7,3.8z"/>
<path color="#f90" d="M102.8,688.8l-1-8.7-5.6,8.5 .9,4.2zM145.6,694.4l-.9-5.7-5.7,11.7 1,2.2z"/>
<path color="#f60" d="M131.8,692.4l-.7-8.4-5.6,9.4 .6,6.3zM137.3,690.8l-1.9-.4-1.9-8.2-5.6,11.2 1.9,4.4 1.8-.5zM144.7,688.7l-.7-.3-5.6,8.2 .6,3.8z"/>
<path color="#fa0" d="M150.3,703.1l-1.8-2.3-1.9-.8-1-5.6-5.6,8.2 .9,2.1 1.9-1.8 1.9,2.6z"/>
<path color="#fc0" d="M151.3,706.3l-1-3.2-5.6,2.4 .9,4.4zM157.9,707.4l-1.9,.3-5.6,0 1.9,1.5z"/>
<path color="#fe0" d="M152.2,709.6l-.9-3.3-5.7,3.6 1,4.5zM159.8,713.1l-1.9-5.7-5.6,1.8 1.9,4.8zM167.6,715.1l-2-1.8-5.6,0 2,2.7z"/>
<path color="#df0" d="M161.8,721l-2-7.9-5.6,.9 1.9,6.6zM170.5,724.4l-1-9-5.6,2.7 1,8.3z"/>
<path color="#ef0" d="M169.5,715.4l-1.9-.3-5.6,.9 1.9,2.1z"/>
<path color="#8e0" d="M172.4,727.3l-1,6.1-.9-9-5.6,2 .9,8.2 1-4.9zM179.3,735.8l-2-9-5.5,6.7 1.9,4.8zM185.3,733.3l-2-2-5.6,3.9 2,3.6z"/>
<path color="#9e0" d="M177.3,726.8l-2,3.2-1.9-8.9-5.6,3.6 2,6.4 2,2.4z"/>
<path color="#6e0" d="M183.3,731.3l-2.1,5-1.9-.5-5.6,2.5 2,.6 2-3.7zM186.2,738.1l-.9-4.8-5.6,5.5 1,5z"/>
<path color="#2e1" d="M189.2,741.6l-2,1.2-1-4.7-5.5,5.7 .9,5.1 2.1-2z"/>
<path color="#0e2" d="M191.1,751.4l-1.9-9.8-5.5,5.3 1.9,7.6z"/>
<path color="#0e7" d="M195.2,753.8l-2-3.2-2.1,.8-5.5,3.1 2.1,1 2,3.7z"/>
<path color="#0ed" d="M196.1,759.7l-.9-5.9-5.5,5.4 .9,3.1z"/>
<path color="#09f" d="M199.2,761.5l-2.2,4.1-.9-5.9-5.5,2.6 1,3 2.1-2.9zM203.1,769.7l-1.9-6.2-5.4,2.1 1.9,6z"/>
<path color="#0cf" d="M201.2,763.5l-2-2-5.5,.9 2.1,3.2z"/>
<path color="#05f" d="M205.1,776.8l-2-7.1-5.4,1.9 2,7.7z"/>
<path color="#00f" d="M207.1,781.7l-2-4.9-5.4,2.5 2,4.2z"/>
<path color="#20f" d="M209.1,784.6l-2-2.9-5.4,1.8 2,4.1z"/>
<path color="#50e" d="M211,792.8l-1.9-8.2-5.4,3 2,8.6z"/>
<path color="#70c" d="M213,799.1l-2-6.3-5.3,3.4 1.9,5.8z"/>
<path color="#70a" d="M215,801l-2-1.9-5.4,2.9 2.1,1.6z"/>
<path color="#708" d="M227.7,805.3l-2.1-.7-2.2-.7-2.1-.7-2.1-.7-2.1-.7-2.1-.8-5.3,2.6 2.1,.8 2.1,.7 2.1,.7 2.1,.7 2.2,.7 2.1,.7z"/>
<path color="#f00" d="M91.4,676l-.7-4.4-1.6,4.9-5.7,5.8 1.4-8.5 .7,6.5zM119.9,681.9l-.7-6.5-.7-6.6-.8,7-.8,6.9-5.7,7.3 .8-5.5 .8-5.6 .6,2.2 .6,2.1z"/>
<path color="#f20" d="M92,680.5l-.6-4.5-5.9,4.3 .8,6.4zM112.5,683.5l-1-6.9-5.8,5.7 1,7.6zM122.4,686.3l-1.8,2.1-.7-6.5-5.9,1.3 .7,2.2 1.8,4.2zM124.1,680.6l-.9,2.9-5.7,8.4 .9,2.4z"/>
<path color="#f60" d="M93.5,681.9l-.8,3-.7-4.4-5.7,6.2 .7,6.4 .7-6.4zM104.7,686.1l-1.8-1.9-5.8,4 1.8,3.3zM115.3,689.7l-1.8,.7-1-6.9-5.8,6.4 1.1,7.7 1.6-6.5z"/>
<path color="#f40" d="M95.2,683.8l-.9-4.9-.8,3-5.8,4.8 .7-6.5 1,8.5zM102.9,684.2l-1.7-2-1.8,0-5.8,3.1 1.9,6.9 1.6-4zM123.2,683.5l-.8,2.8-5.9,3.3 1,2.3zM124.8,687l-.7-6.4-5.7,13.7 .7,4.2zM137.7,692.8l-.6-3.7-1.9-.7-5.8,7.6 1.9-5.6 .6,7.3z"/>
<path color="#f90" d="M96.2,688.6l-1-4.8-5.8,4.9 1.1,8.5zM105.6,691.3l-.9-5.2-5.8,5.4 1,7.6zM125.5,693.4l-.7-6.4-5.7,11.5 .6,4.3zM138.4,696.6l-.7-3.8-5.8,4.9 .7,7.2z"/>
<path color="#fa0" d="M126.1,699.7l-.6-6.3-5.8,9.4 .7,4.3zM133.4,699.2l-1.8-1.9-1.8,.5-1.9-4.4-.9,3.1-5.7,9.3 .9-1.2 1.8,.6 1.8-1.3 1.9-1.3zM139,700.4l-.6-3.8-5.8,8.3 .7,7.2zM144.7,705.5l-1.9-2.6-5.8,2.1 1.9,2.9z"/>
<path color="#fc0" d="M142.8,702.9l-1.9,1.8-.9-2.1-1-2.2-5.7,11.7 .9-1.3 1-1.3 1.8-4.5zM145.6,709.9l-.9-4.4-5.8,2.4 1,5.7zM152.3,709.2l-1.9-1.5-5.8,0 1.9,3.3z"/>
<path color="#ef0" d="M146.6,714.4l-1-4.5-5.7,3.7 1,5.7zM156.1,720.6l-1.9-6.6-5.7,1 1.9,5.2zM163.9,718.1l-1.9-2.1-5.7,1 1.9,3.9z"/>
<path color="#fe0" d="M154.2,714l-1.9-4.8-5.8,1.8 2,4zM162,716l-2-2.7-5.7-.1 2,3.8z"/>
<path color="#be0" d="M158.1,723.5l-2-2.9-5.7-.4 2,5.8z"/>
<path color="#df0" d="M164.9,726.4l-1-8.3-5.7,2.8 1,7.4z"/>
<path color="#8e0" d="M166.8,729.7l-1,4.9-.9-8.2-5.7,1.9 1,7.4 1-3.6zM171.8,733.5l-2-2.4-5.7,1.2 2,8.1z"/>
<path color="#9e0" d="M169.8,731.1l-2-6.4-1,5-5.6,2.4 1-3.6 1.9,3.8z"/>
<path color="#6e0" d="M179.7,738.8l-2-3.6-2,3.7-2-.6-1.9-4.8-5.7,6.9 2,.5 2,.5 2-2.2 2,5.1z"/>
<path color="#4e0" d="M180.7,743.8l-1-5-5.6,5.5 .9,5.4z"/>
<path color="#0e2" d="M185.6,754.5l-1.9-7.6-2.1,2-.9-5.1-5.7,5.9 1,5.3 2.1-2.6 2,5.2z"/>
<path color="#0ed" d="M189.7,759.2l-2-3.7-2.1-1-5.5,3.1 2,2.8 2,4.3z"/>
<path color="#0cf" d="M195.8,765.6l-2.1-3.2-2.1,2.9-1-3-.9-3.1-5.6,5.5 1,.2 1,.2 2.1-1.7 2,4.4z"/>
<path color="#09f" d="M197.7,771.6l-1.9-6-5.6,2.2 2,5.7z"/>
<path color="#05f" d="M199.7,779.3l-2-7.7-5.5,1.9 2,8.3z"/>
<path color="#00f" d="M201.7,783.5l-2-4.2-5.5,2.5 2,3.4z"/>
<path color="#20f" d="M203.7,787.6l-2-4.1-5.5,1.7 2,5.4z"/>
<path color="#70d" d="M205.7,796.2l-2-8.6-5.5,3 2,9.1z"/>
<path color="#70a" d="M209.7,803.6l-2.1-1.6-1.9-5.8-5.5,3.5 2,5.3 2.1,1.3z"/>
<path color="#708" d="M222.4,807.9l-2.1-.7-2.2-.7-2.1-.7-2.1-.7-2.1-.7-2.1-.8-5.4,2.7 2.1,.7 2.1,.7 2.1,.8 2.2,.7 2.1,.7 2.2,.7z"/>
<path fill="none" stroke="#8c8c8c" stroke-width=".4" stroke-opacity=".7" d="M207.1,781.7L196.2,785.2M187.2,742.8L176,755M167.6,715.1L156.3,717M148.5,700.8L137,705M129.7,667.1L118.4,694.3M112.2,686.6L100.9,706.7"/>
<path fill="none" stroke="#4a4a3a" stroke-width=".45" stroke-opacity=".8" d="M217.1,810.6l-2.2-.7-2.1-.7-2.2-.7-2.1-.8-2.1-.7-2.1-.7-2.1-1.3-2-5.3-2-9.1-2-5.4-2-3.4-2-8.3-2-5.7-2-4.4-2.1,1.7-2-.4-2-4.3-2-2.8-2-5.2-2.1,2.6-1.9-10.7-2-5.1-2,2.2-2-.5-2-.5-2-8.1-1.9-3.8-2,7.2-2-14.8-1.9-3.9-2-3.8-1.9,12.8-2-5.8-1.9-5.2-2-4-1.9-3.3-1.8,13.1-1.9-1.5-2-11.4-1.9-2.9-1.8,4.5-1.9,2.6-2-21.7-1.9,5.6-1.7,6.6-1.9,1.3-1.8,1.3-1.8-.6-1.8,2.5-2-12.8-1.9-4.7-1.8-4.2-1.9-6.5-1.6,11.1-1.8,1.1-1.6,6.5-2.1-15.3-1.5,11.2-1.8,0-1.5,13.2-2-15.2-1.8-3.3-1.6,4-1.9-6.9-1.4,11.4-1.7,.5-2.1-17-1.4,12.9-2.2-19.3-1.4,8.5"/>
<path color="#f00" d="M85.5,680.3l-.7-6.5-.7,4.3-5.9,6 .7-6.6 .6,4.3zM114.7,685.4l-1.9-6.5-.8,5.6-6,3.7 .9-3.9 1.9,6.4z"/>
<path color="#f40" d="M86.3,686.7l-.8-6.4-6,1.5 .7,4.2zM89.4,688.7l-1-8.5-.7,6.5-6,.3 .7-3.3 1,6.4zM106.7,689.9l-1-7.6-.8,5.6-5.9,3.7 .8-3.3 1.1,7.1zM116.5,689.6l-1.8-4.2-5.9,5.3 1.8,1.6zM131.9,697.7l-.6-7.3-1.9,5.6-5.9,1.3 1.8-5.7 .7,6.6z"/>
<path color="#f60" d="M87.7,686.7l-.7,6.4-.7-6.4-6.1-.7 .7,4.2 .8-3.2zM95.5,692.2l-1.9-6.9-.7,5.7-6,2.4 .8-4.1 1.8,6.1zM98,689.8l-.9-1.6-5.9,4.4 .9,3.3zM118.4,694.3l-1.9-4.7-5.9,2.7 1.9,4.1z"/>
<path color="#f90" d="M90.5,697.2l-1.1-8.5-6,1.4 1.1,6.4zM98.9,691.5l-.9-1.7-5.9,6.1 1,3.4zM119.4,700.7l-1-6.4-5.9,2.1 1,4.5zM132.6,704.9l-.7-7.2-5.9,.5 .7,6.5z"/>
<path color="#fa0" d="M99.9,699.1l-1-7.6-5.8,7.8 1,4.8z"/>
<path color="#fc0" d="M127.7,702.6l-1.9,1.3-1.8,1.3-1.8-.6-1.8,2.5-1-6.4-5.9,.2 1,4.5 1.8,2.2 1.8,.9 1.9,2.5 1.8-5.3zM133.3,712.1l-.7-7.2-5.9-.2 .7,6.5zM138.9,707.9l-1.9-2.9-1.8,4.5-5.9-1.5 1.9,1.5 1.8,0z"/>
<path color="#fe0" d="M139.9,713.6l-1-5.7-5.9,1.6 1,4.7zM148.5,715l-2-4-1.9-3.3-.9,6.6-5.8,4 .9-2.8 1.9,1.7 2,2.6z"/>
<path color="#ef0" d="M140.9,719.3l-1-5.7-5.9,.6 1,4.7zM150.4,720.2l-1.9-5.2-5.8,4.8 1.9,.8zM158.2,720.9l-1-2-.9-1.9-2-3.8-1,6.5-5.8,3.5 1-3.2 2,4.4 .9-2.1 1-2.1z"/>
<path color="#df0" d="M142.8,720.8l-1.9-1.5-5.9-.4 1.9,2.2zM153.3,719.7l-.9,6.3-2-5.8-5.8,.4 2,5.7 .9-3.1zM158.9,725.9l-.7-5-5.8-.7 .7,6.2z"/>
<path color="#be0" d="M159.5,730.8l-.6-4.9-5.8,.5 .6,6.2z"/>
<path color="#8e0" d="M162.2,728.5l-2,7.2-.7-4.9-5.8,1.8 .7,6.1 2-6.5z"/>
<path color="#9e0" d="M164.1,732.3l-1.9-3.8-5.8,3.7 2,6.1z"/>
<path color="#6e0" d="M168.1,740.9l-2-.5-2-8.1-5.7,6 1.9,4.1 2-.5zM174.1,744.3l-2-5.1-2,2.2-5.8,4.1 2.1-3 2,3.4z"/>
<path color="#4e0" d="M170.1,741.4l-2-.5-5.8,1 2,3.6z"/>
<path color="#2e1" d="M175,749.7l-.9-5.4-5.7,1.6 1,5.2z"/>
<path color="#0e2" d="M178.1,752.4l-2.1,2.6-1-5.3-5.6,1.4 .9,5.1 2.1-2.5z"/>
<path color="#0e7" d="M180.1,757.6l-2-5.2-5.7,1.3 2,6z"/>
<path color="#0ed" d="M182.1,760.4l-2-2.8-5.7,2.1 2,1.4z"/>
<path color="#0cf" d="M190.2,767.8l-2-4.4-2.1,1.7-2-.4-2-4.3-5.7,.7 2,6.8 2.1-1.1 2.1-.5 2,4.2z"/>
<path color="#09f" d="M192.2,773.5l-2-5.7-5.6,2.7 2,5.4z"/>
<path color="#05f" d="M194.2,781.8l-2-8.3-5.6,2.4 2,8.1z"/>
<path color="#00f" d="M196.2,785.2l-2-3.4-5.6,2.2 2.1,3.8z"/>
<path color="#20f" d="M198.2,790.6l-2-5.4-5.5,2.6 2,5.8z"/>
<path color="#70d" d="M200.2,799.7l-2-9.1-5.5,3 2,9.1z"/>
<path color="#70a" d="M202.2,805l-2-5.3-5.5,3 2,5z"/>
<path color="#708" d="M217.1,810.6l-2.2-.7-2.1-.7-2.2-.7-2.1-.8-2.1-.7-2.1-.7-2.1-1.3-5.5,2.7 2.1,1.3 2.1,.7 2.1,.7 2.2,.8 2.1,.7 2.1,.8 2.2,.7z"/>
<path color="#f20" d="M80.2,686l-.7-4.2-.6-4.3-.7,6.6-5.9,6.2 .5-9 .6,2 .7,1.9z"/>
<path color="#f40" d="M80.9,690.2l-.7-4.2-6.1-.8 .6,2zM83.4,690.1l-1-6.4-.7,3.3-6.2,.3 .9,0 1,4.2zM110.6,692.3l-1.8-1.6-1.9-6.4-6,5.5 1.9,6.3 1.8-1.1zM126,698.2l-.7-6.6-1.8,5.7-6,1.3 1.8-5.8 .7,5.8z"/>
<path color="#f60" d="M81.7,687l-.8,3.2-6.2-3 .8,.1zM100.9,695.4l-1.1-7.1-.8,3.3-.8,3.4-6,1.5 .8-1.1 .9-1 1,6.6zM112.5,696.4l-1.9-4.1-6,2.7 1.9,3.6z"/>
<path color="#f90" d="M84.5,696.5l-1.1-6.4-6,1.4 .9,4.2zM91.2,692.6l-1.7,2.8-1.8-6.1-.8,4.1-6,2.4 .8-2.5 1.8,5.3 1.7-1.6zM113.5,700.9l-1-4.5-6,2.2 .9,2.6zM126.7,704.7l-.7-6.5-6,.4 .7,5.8z"/>
<path color="#fa0" d="M92.1,695.9l-.9-3.3-6,4.4 1,5.1zM114.5,705.4l-1-4.5-6.1,.3 1,2.5zM127.4,711.2l-.7-6.5-6-.3 .7,5.8z"/>
<path color="#fc0" d="M116.3,707.6l-1.8-2.2-6.1-1.7 1.9,7zM134,714.2l-1-4.7-1.8,0-1.9-1.5-1.9,3.2-6-1 1.8-3.8 2,7.6 1.9-2.9 1,3.7z"/>
<path color="#ef0" d="M136.9,721.1l-1.9-2.2-1-4.7-5.9,.6 .9,3.6 2,3.1zM144.6,720.6l-1.9-.8-2-2.6-1.9-1.7-.9,2.8-6,4.1 1,1 1.9,.1 2,1.1 1.9-3.6zM153.1,726.4l-.7-6.2-1,2.1-5.9,3.4 1-6.3 .7,7.5z"/>
<path color="#df0" d="M137.9,718.3l-1,2.8-5.9,.4 .9,.9zM151.4,722.3l-.9,2.1-2-4.4-1,3.2-.9,3.1-2-5.7-5.9,.4 1.9,5.6 1,.1 1,.1 2,5.1 .9-6.2z"/>
<path color="#be0" d="M153.7,732.6l-.6-6.2-5.9,.5 .7,7.5z"/>
<path color="#8e0" d="M158.4,738.3l-2-6.1-2,6.5-.7-6.1-5.8,1.8 .6,7.4 2-5.9 2,8.4z"/>
<path color="#6e0" d="M162.3,741.9l-2,.5-1.9-4.1-5.9,6 2,.1 2-1.5z"/>
<path color="#4e0" d="M168.4,745.9l-2-3.4-2.1,3-2-3.6-5.8,1 2,6.7 2-3.8 2,1.8z"/>
<path color="#2e1" d="M169.4,751.1l-1-5.2-5.9,1.7 1,4.9z"/>
<path color="#0e2" d="M172.4,753.7l-2.1,2.5-.9-5.1-5.9,1.4 1.1,4.9 2-2.3z"/>
<path color="#0e7" d="M176.4,761.1l-2-1.4-2-6-5.8,1.4 2,6.8 2.1-.1z"/>
<path color="#0cf" d="M184.6,770.5l-2-4.2-2.1,.5-2.1,1.1-2-6.8-5.7,.7 2,9.2 2.1-2.5 2,.7 2.1,3.9z"/>
<path color="#09f" d="M186.6,775.9l-2-5.4-5.7,2.6 2,5.4z"/>
<path color="#05f" d="M188.6,784l-2-8.1-5.7,2.6 2,7.7z"/>
<path color="#00f" d="M190.7,787.8l-2.1-3.8-5.7,2.2 2.1,4.2z"/>
<path color="#20f" d="M192.7,793.6l-2-5.8-5.7,2.6 2,6.2z"/>
<path color="#70d" d="M194.7,802.7l-2-9.1-5.7,3 2,9.2z"/>
<path color="#70a" d="M196.7,807.7l-2-5-5.7,3.1 2.1,4.7z"/>
<path color="#708" d="M211.6,813.4l-2.2-.7-2.1-.8-2.1-.7-2.2-.8-2.1-.7-2.1-.7-2.1-1.3-5.6,2.8 2.1,1.2 2.1,.8 2.1,.7 2.2,.7 2.1,.8 2.2,.8 2.1,.7z"/>
<path fill="none" stroke="#8c8c8c" stroke-width=".4" stroke-opacity=".7" d="M196.2,785.2L185,790.4M176,755L164.6,757.4M156.3,717L144.6,731.9M137,705L125.2,714M118.4,694.3L106.5,698.6M100.9,706.7L89,711.3"/>
<path fill="none" stroke="#4a4a3a" stroke-width=".45" stroke-opacity=".8" d="M206,816.2l-2.1-.7-2.2-.8-2.1-.8-2.2-.7-2.1-.7-2.1-.8-2.1-1.2-2.1-4.7-2-9.2-2-6.2-2.1-4.2-2-7.7-2-5.4-2.1-3.9-2-.7-2.1,2.5-2-9.2-2.1,.1-2-6.8-2,2.3-2.1-9.8-2-1.8-2,3.8-2-6.7-2,1.5-2-.1-2-8.4-2,5.9-2-22.4-1.9,12.5-2-5.1-2-.2-1.9-5.6-1.9,3.6-2-1.1-1.9-.1-1.9-1.9-2-3.1-1.9-7.3-1.9,2.9-2-7.6-1.8,3.8-2.1-17.4-1.8,5.8-1.7,10.2-1.7,9.3-1.9-6.2-1.9-1.2-1.9-7-1.9-5.1-1.9-3.6-1.8,1.1-1.9-6.3-1.7,4.4-1.7,4-1.6,9.3-2-13.1-1.7,2.1-1.8,1.5-1.4,13.3-1.8-4.1-2-10.2-1.7,1.6-1.8-5.3-1.6,4.9-1.8-2.5-1.9-8.4-1.7-.1-1.9-5.9-1.1,17.8"/>
<path color="#f20" d="M74.7,687.2l-1.9-5.9-6.1,3.7 1.7,.3z"/>
<path color="#f40" d="M76.4,687.3l-.9,0-.8-.1-6.3-1.9 .9,2.7 1,2.8zM101.9,692.9l-1-3.1-.9,2.2-6,4.9 .7-4.7 1.1,5.6z"/>
<path color="#f60" d="M77.4,691.5l-1-4.2-6.1,3.5 1,4.6zM106.5,698.6l-1.9-3.6-.9,.5-.9,.6-.9-3.2-6.1,4.9 1,5.6 .8-3.4 .9-3.3 1.9,6.6zM120.4,701.5l-1.1-8.7-1.8,5.8-6,7 1.8-.8 1,2.8z"/>
<path color="#f90" d="M78.3,695.7l-.9-4.2-6.1,3.9 1,4.7zM108.4,703.7l-1.9-5.1-6.1,4.7 1.8,0zM123.9,708.9l-.7-2.5-.9,1.9-6.1-2 .9-4.1 .7,4.9z"/>
<path color="#fa0" d="M80.1,698.2l-1.8-2.5-6,4.4 1.6-1.6zM85.2,697l-1.7,1.6-1.8-5.3-6.1,4.3 1.8,3.7 1.8,.9zM122.3,708.3l-.9,1.9-1-8.7-6.1,6.1 1,2.8 .9-4.1zM124.6,711.4l-.7-2.5-6.1-1.8 .7,4.9z"/>
<path color="#fc0" d="M110.3,710.7l-1.9-7-6.2-.4 2,8.7zM125.2,714l-.6-2.6-6.1,.6 .7,4.9z"/>
<path color="#fe0" d="M129,718.4l-1.9-7.3-1.9,2.9-6,2.9 1.9,.2 2,8.7z"/>
<path color="#df0" d="M136.8,724.6l-2-1.1-1.9-.1-1-1-.9-.9-2-3.1-5.9,7.4 1.9,2.7 .9-2.6 1-2.6 1.9,4.1 1.9-2.8zM140.6,726.6l-.9-2.8-6.1,3.2 1.1,4.2zM147.2,726.9l-.7-7.5-1,6.3-5.9,7.5 .9-4.1 .7,4.8z"/>
<path color="#ef0" d="M139.7,723.8l-1-2.8-1.9,3.6-6.1,0 1.9-1.8 1,4.2z"/>
<path color="#be0" d="M142.6,726.8l-2-.2-5.9,4.6 1.9,2.7z"/>
<path color="#9e0" d="M144.6,731.9l-2-5.1-6,7.1 2,3.4zM147.9,734.4l-.7-7.5-6,7 .7,4.8z"/>
<path color="#8e0" d="M152.5,744.3l-2-8.4-2,5.9-.6-7.4-6,4.3 .7,4.9 1.9-6.2 2,3.2z"/>
<path color="#6e0" d="M156.5,742.9l-2,1.5-2-.1-6-3.7 2,1.9 2.1,2.6zM162.5,747.6l-2-1.8-5.9,1.7 2-.1z"/>
<path color="#4e0" d="M157.5,746.3l-1-3.4-5.9,2.2 1,5.8zM163.5,752.5l-1-4.9-5.9-.2 1,6.5z"/>
<path color="#2e1" d="M159.5,747.7l-1,1.9-1-3.3-5.9,4.6 1,5.7 1-4.5z"/>
<path color="#0e2" d="M168.6,761.9l-2-6.8-2,2.3-1.1-4.9-5.9,1.4 1.1,6.5 2-2.2 2,4.6z"/>
<path color="#0e7" d="M170.7,761.8l-2.1,.1-5.9,.9 2.1,.1z"/>
<path color="#0ed" d="M172.7,771l-2-9.2-5.9,1.1 2,5.9z"/>
<path color="#0cf" d="M178.9,773.1l-2.1-3.9-2-.7-2.1,2.5-5.9-2.2 2.1,2.5 2.1,.5 2,3.6z"/>
<path color="#09f" d="M180.9,778.5l-2-5.4-5.9,2.3 2.1,5.5z"/>
<path color="#05f" d="M182.9,786.2l-2-7.7-5.8,2.4 2,8.8z"/>
<path color="#00f" d="M185,790.4l-2.1-4.2-5.8,3.5 2.1,3.8z"/>
<path color="#20f" d="M187,796.6l-2-6.2-5.8,3.1 2.1,6.6z"/>
<path color="#70d" d="M189,805.8l-2-9.2-5.7,3.5 2,8.9z"/>
<path color="#70a" d="M191.1,810.5l-2.1-4.7-5.7,3.2 2.1,4.3z"/>
<path color="#708" d="M206,816.2l-2.1-.7-2.2-.8-2.1-.8-2.2-.7-2.1-.7-2.1-.8-2.1-1.2-5.7,2.8 2.1,1.2 2.1,.7 2.1,.8 2.2,.8 2.1,.7 2.2,.8 2.2,.7z"/>
<path color="#f20" d="M69.3,688l-.9-2.7-1.7-.3-6.2,3.7 1.5-5.4 1,5.5z"/>
<path color="#f40" d="M70.3,690.8l-1-2.8-6.3,.8 1,5.4z"/>
<path color="#f90" d="M71.3,695.4l-1-4.6-6.3,3.4 1.1,5.2zM96.8,703.4l-1-5.6-6.2,4.9 1.1,8zM102.2,703.3l-1.8,0-1.9-6.6-6.3,1.7 2.1,9.8 1.7-5.3z"/>
<path color="#fa0" d="M77.4,701.3l-1.8-3.7-1.7,.9-1.6,1.6-1-4.7-6.2,4 1,5.2 1.5-5.8 1.8,3.2 1.8,2.1zM87.9,701.6l-1-2.8-6.2,3.4 1.1,6.6zM104.2,712l-2-8.7-6.2-.4 2,10.4zM115.3,710.4l-1-2.8-1-2.8-1.8,.8-.9,.9-.9,.8-.9,5.3-6.2-.9 .8-6 1,3.5 1,3.6 1.9,4.1 .9-3.2 .9-3.2zM118.5,712l-.7-4.9-6.3-1.9 .8,7.4z"/>
<path color="#fc0" d="M79.2,702.2l-1.8-.9-6.2,2.8 1.8,3.4zM119.2,716.9l-.7-4.9-6.2,.6 .7,7.4z"/>
<path color="#fe0" d="M80.1,706.7l-.9-4.5-6.2,5.3 1,3.8zM121.1,717.1l-1.9-.2-6.2,3.1 2,3.2z"/>
<path color="#f60" d="M86.9,698.8l-1-2.8-6.3-.5 1.1,6.7zM95.8,697.8l-1.1-5.6-6.2,2.5 1.1,8zM117.8,707.1l-.7-4.9-.9,4.1-6.3-2.1 .8-6.4 .8,7.4z"/>
<path color="#df0" d="M123.1,725.8l-2-8.7-6.1,6.1 2,10.1zM130.7,724.6l-1.9,2.8-1.9-4.1-1,2.6-6.1,3.5 .9-6.2 2,8.2 1.9-6.8z"/>
<path color="#ef0" d="M133.6,727l-1-4.2-1.9,1.8-6.1,0 1.9,.1 1,5.6z"/>
<path color="#be0" d="M134.7,731.2l-1.1-4.2-6.1,3.3 1.1,5.6z"/>
<path color="#9e0" d="M136.6,733.9l-1.9-2.7-6.1,4.7 2,5.2zM141.2,733.9l-.7-4.8-.9,4.1-6.1,7.6 1-2 .7,2.2zM148.5,742.5l-2-1.9-2-3.2-6.1,1.5 2-2.1 2.1,3.6z"/>
<path color="#8e0" d="M139.6,733.2l-1,4.1-2-3.4-6,7.2 1.9,1.6 1-1.9zM141.9,738.7l-.7-4.8-6,7.1 .6,2.2zM150.6,745.1l-2.1-2.6-6-2.1 2,6.9z"/>
<path color="#4e0" d="M151.6,750.9l-1-5.8-6.1,2.2 1,8.2zM157.6,753.9l-1-6.5-6-.2 1,8.1z"/>
<path color="#0e2" d="M162.7,762.8l-2-4.6-2,2.2-1.1-6.5-6,1.4 1.1,8.1 2-2.1 2.1,2.5z"/>
<path color="#0e7" d="M166.8,768.8l-2-5.9-2.1-.1-5.9,1 2,.2 2.1,2.5z"/>
<path color="#0ed" d="M168.9,771.3l-2.1-2.5-5.9-2.3 2,7.5z"/>
<path color="#0cf" d="M173,775.4l-2-3.6-2.1-.5-6,2.7 2.1,.4 2.1,3.3z"/>
<path color="#09f" d="M175.1,780.9l-2.1-5.5-5.9,2.3 2.1,5.7z"/>
<path color="#05f" d="M177.1,789.7l-2-8.8-5.9,2.5 2,9.9z"/>
<path color="#00f" d="M179.2,793.5l-2.1-3.8-5.9,3.6 2.1,3.3z"/>
<path color="#20f" d="M181.3,800.1l-2.1-6.6-5.9,3.1 2.1,7.1z"/>
<path color="#70d" d="M183.3,809l-2-8.9-5.9,3.6 2,8.6z"/>
<path color="#70a" d="M185.4,813.3l-2.1-4.3-5.9,3.3 2.1,3.9z"/>
<path color="#708" d="M200.4,819l-2.2-.7-2.2-.8-2.1-.7-2.2-.8-2.1-.8-2.1-.7-2.1-1.2-5.9,2.9 2.2,1.1 2.1,.8 2.1,.8 2.2,.7 2.1,.8 2.2,.8 2.2,.7z"/>
<path fill="none" stroke="#8c8c8c" stroke-width=".4" stroke-opacity=".7" d="M185,790.4L173.3,796.6M164.6,757.4L152.7,763.4M144.6,731.9L132.5,742.7M125.2,714L113,720M106.5,698.6L94.3,708.2M89,711.3L76.6,712.7"/>
<path fill="none" stroke="#4a4a3a" stroke-width=".45" stroke-opacity=".8" d="M194.6,821.9l-2.2-.7-2.2-.8-2.1-.8-2.2-.7-2.1-.8-2.1-.8-2.2-1.1-2.1-3.9-2-8.6-2.1-7.1-2.1-3.3-2-9.9-2.1-5.7-2.1-3.3-2.1-.4-2-7.5-2.1-2.5-2-.2-2.1-2.5-2,2.1-2.1-16.2-2,2-2,14.6-2.1-16.5-2-6.9-2.1-3.6-2,2.1-1.9,6.5-2-6.6-2,3.9-1.9-1.6-2-5.2-2.1-11.2-1.9-.1-1.9,6.8-2-8.2-1.8,12.3-1.9-2.2-2-10.1-2-3.2-2.3-22.2-1.6,12.7-1.8,6.4-1.9-4.1-2-7.1-1.6,11.9-2-4.7-1.8,.4-2-10.4-1.7,5.3-2.1-9.8-1.5,12.3-2.2-16-1.4,14.3-1.8,1.4-1.6,3.6-1.9-5.2-2.2-13.3-1.2,17.4-1.8-.2-1.6,2.4-2-7.6-1.8-3.4-1.8-2.1-1.8-3.2-1.5,5.8-2.1-10.4-2-10.9-1.5,5.4-1.2,12.7"/>
<path color="#f20" d="M63,688.8l-1-5.5-1.5,5.4-6.4,2.4 1.5-3.8 1.1,6.7z"/>
<path color="#f60" d="M64,694.2l-1-5.4-6.3,5.2 1.1,6.7z"/>
<path color="#f90" d="M65.1,699.4l-1.1-5.2-6.2,6.5 .9,1.2zM80.7,702.2l-1.1-6.7-.6,8.7-6.3,2.3 .7-4.5 1,3.9zM89.6,702.7l-1.1-8-6.2,7.2 1.1,6.1zM94.3,708.2l-2.1-9.8-.7,6.2-6.3,4 .7-5.6 2.1,8.9zM97,708.1l-1-5.2-.9,2.6-6.3,2.2 .8-4.1 1,5.7z"/>
<path color="#fa0" d="M71.2,704.1l-1.8-2.1-1.8-3.2-1.5,5.8-1-5.2-6.4,2.5 .9,1.1 1.7,.8 1.8,.2 1.7,.3zM81.8,708.8l-1.1-6.6-6.3,3.7 1,3.8zM90.7,710.7l-1.1-8-6.2,5.3 1,6.1zM104.4,709.2l-1-3.5-.8,6-6.3,3.6 .8-4.6 1.1,6.3zM112.3,712.6l-.8-7.4-6.3,3.6 .8,7.8z"/>
<path color="#fc0" d="M72.1,705.8l-.9-1.7-6.4,.2 1,4.6zM98,713.3l-1-5.2-6.4,1.2 1.1,5.7z"/>
<path color="#fe0" d="M102.6,711.7l-.8,5.9-2-4.7-1.8,.4-6.3,1.7 1.9,2.6 1.9,2.3 .8-4.6zM113,720l-.7-7.4-6.3,4 .8,7.7z"/>
<path color="#f40" d="M111.5,705.2l-.8-7.4-.8,6.4-6.3,4.1 .8-7.2 .8,7.7z"/>
<path color="#ef0" d="M115,723.2l-2-3.2-6.2,4.3 2,5zM126.5,724.7l-1.9-.1-6.3,3.2 2,4.7z"/>
<path color="#be0" d="M117,733.3l-2-10.1-6.2,6.1 2,9.2z"/>
<path color="#df0" d="M124.6,724.6l-1.9,6.8-2-8.2-.9,6.2-6.2,2 .8-7 2,7.3 1.9-3.9zM127.5,730.3l-1-5.6-6.2,7.8 1.1,3.9z"/>
<path color="#9e0" d="M128.6,735.9l-1.1-5.6-6.1,6.1 1,3.8zM142.5,740.4l-2.1-3.6-2,2.1-6.2,.3 2.1,3.5 2,3z"/>
<path color="#8e0" d="M138.4,738.9l-1.9,6.5-2-6.6-2,3.9-1.9-1.6-2-5.2-6.2,4.3 1.9,.7 2.1,6 1.9-3.4 2,1.6 1.9-5.9z"/>
<path color="#6e0" d="M144.5,747.3l-2-6.9-6.2,5.3 2.1,8.9zM150.6,747.2l-2,2-6.2,3.6 2-1.1z"/>
<path color="#4e0" d="M145.5,755.5l-1-8.2-6.1,7.3 1,4zM151.6,755.3l-1-8.1-6.2,4.5 1.1,7z"/>
<path color="#0e2" d="M152.7,763.4l-1.1-8.1-6.1,3.4 1,7.1zM158.8,764l-2-.2-2.1-2.5-6.1,3.6 2-1.8 2.1,4z"/>
<path color="#0e7" d="M160.9,766.5l-2.1-2.5-6.1,3.1 2.1,2.7z"/>
<path color="#0ed" d="M162.9,774l-2-7.5-6.1,3.3 2.1,7.5z"/>
<path color="#0cf" d="M167.1,777.7l-2.1-3.3-2.1-.4-6,3.3 2.1-.8 2.1,4.9z"/>
<path color="#07f" d="M169.2,783.4l-2.1-5.7-6,3.7 2.1,5.2z"/>
<path color="#02f" d="M171.2,793.3l-2-9.9-6,3.2 2,10z"/>
<path color="#00f" d="M173.3,796.6l-2.1-3.3-6,3.3 2.1,3.7z"/>
<path color="#50e" d="M175.4,803.7l-2.1-7.1-6,3.7 2.1,6.9z"/>
<path color="#70c" d="M177.4,812.3l-2-8.6-6,3.5 2.1,8.4z"/>
<path color="#70a" d="M179.5,816.2l-2.1-3.9-5.9,3.3 2.1,3.6z"/>
<path color="#708" d="M194.6,821.9l-2.2-.7-2.2-.8-2.1-.8-2.2-.7-2.1-.8-2.1-.8-2.2-1.1-5.9,3 2.1,1 2.2,.8 2.1,.8 2.2,.7 2.2,.8 2.1,.8 2.2,.8z"/>
<path color="#f20" d="M53.3,691.1l-.9,.1-7-10.5 1.1,6.4z"/>
<path color="#f40" d="M56.7,694l-1.1-6.7-1.5,3.8-.8,0-6.8-4 1.1,6.4 1.6-2.1 1.2,7.9z"/>
<path color="#f90" d="M57.8,700.7l-1.1-6.7-6.3,5.3 1.1,7.9zM90.6,709.3l-1-5.7-.8,4.1-6.5,2.3 .8-5.6 1.1,6.1z"/>
<path color="#fa0" d="M64.8,704.3l-1.7-.3-6.5,2 1.7-1.5zM83.4,708l-1.1-6.1-6.3,7.2 1,4.3zM88.8,707.7l-.8,4.2-2.1-8.9-.7,5.6-6.4,4 .8-5 2,8 .7-5.6zM106,716.6l-.8-7.8-6.4,3.7 .8,8.1z"/>
<path color="#fc0" d="M65.8,708.9l-1-4.6-6.5,.2 1.1,7.6zM75.4,709.7l-1-3.8-6.4,3.8 .9,.9zM91.7,715l-1.1-5.7-6.4,1.2 1.1,6.1zM98.2,717l-1.1-6.3-.8,4.6-6.4,3.7 .9-3.2 1.1,9.1z"/>
<path color="#fe0" d="M93.6,717.6l-1.9-2.6-6.4,1.6 2,5.7zM106.8,724.3l-.8-7.7-6.4,4 .8,8z"/>
<path color="#f60" d="M105.2,708.8l-.8-7.7-.8,7.2-6.3,4.3 .7-8.2 .8,8.1z"/>
<path color="#df0" d="M108.8,729.3l-2-5-6.4,4.3 2.1,6.8zM120.3,732.5l-2-4.7-1.9,3.9-6.3,.3 1.9-.8 2.1,9.2z"/>
<path color="#ef0" d="M116.4,731.7l-2-7.3-6.4,1.3 2.1,6.3z"/>
<path color="#9e0" d="M122.4,740.2l-1-3.8-1.1-3.9-6.2,7.9 1,2.1 1,2.2zM134.3,742.7l-2.1-3.5-1.9,5.9-6.3-.3 1.9-5.2 2.1,9z"/>
<path color="#8e0" d="M126.4,746.9l-2.1-6-1.9-.7-6.3,4.5 1.9-4 2.1,10.5zM130.3,745.1l-2-1.6-6.3,4.7 2-3.4zM136.3,745.7l-2-3-6.3,5.9 2,2.5z"/>
<path color="#4e0" d="M138.4,754.6l-2.1-8.9-6.3,5.4 2.2,11zM145.5,758.7l-1.1-7-2,1.1-1,4.9-6.2,1.1 1-2.4 2-.2 1.1,6z"/>
<path color="#2e1" d="M139.4,758.6l-1-4-6.2,7.5 1-.4z"/>
<path color="#0e2" d="M146.5,765.8l-1-7.1-6.2,3.5 1,6zM152.7,767.1l-2.1-4-2,1.8-6.2,3.7 2-6.1 2.1,7.7z"/>
<path color="#0e7" d="M148.6,764.9l-2.1,.9-6.2,2.4 2.1,.4zM154.8,769.8l-2.1-2.7-6.2,3.1 2.1,3z"/>
<path color="#0ed" d="M156.9,777.3l-2.1-7.5-6.2,3.4 2.1,7.4z"/>
<path color="#0cf" d="M159,776.5l-2.1,.8-6.2,3.3 2.1-2z"/>
<path color="#09f" d="M161.1,781.4l-2.1-4.9-6.2,2.1 2.1,6.6z"/>
<path color="#07f" d="M163.2,786.6l-2.1-5.2-6.2,3.8 2.1,4.8z"/>
<path color="#02f" d="M165.2,796.6l-2-10-6.2,3.4 2.1,10z"/>
<path color="#00f" d="M167.3,800.3l-2.1-3.7-6.1,3.4 2.1,4.1z"/>
<path color="#50e" d="M169.4,807.2l-2.1-6.9-6.1,3.8 2.1,6.6z"/>
<path color="#70c" d="M171.5,815.6l-2.1-8.4-6.1,3.5 2.1,8.2z"/>
<path color="#70a" d="M173.6,819.2l-2.1-3.6-6.1,3.3 2.2,3.2z"/>
<path color="#708" d="M188.7,824.9l-2.2-.8-2.1-.8-2.2-.8-2.2-.7-2.1-.8-2.2-.8-2.1-1-6,2.9 2.1,1 2.2,.8 2.1,.8 2.2,.8 2.2,.8 2.1,.8 2.2,.8z"/>
<path fill="none" stroke="#8c8c8c" stroke-width=".4" stroke-opacity=".7" d="M173.3,796.6L161.2,804.1M152.7,763.4L140.3,768.2M132.5,742.7L120.1,751.2M113,720L100.4,728.6M94.3,708.2L81.6,715.6M76.6,712.7L63.9,716.8"/>
<path fill="none" stroke="#4a4a3a" stroke-width=".45" stroke-opacity=".8" d="M182.7,827.9l-2.2-.8-2.1-.8-2.2-.8-2.2-.8-2.1-.8-2.2-.8-2.1-1-2.2-3.2-2.1-8.2-2.1-6.6-2.1-4.1-2.1-10-2.1-4.8-2.1-6.6-2.1,2-2.1-7.4-2.1-3-2.1-7.7-2,6.1-2.1-.4-2.1-12-2,.2-2,4.9-2,.8-2.2-11-2-2.5-2.1-9-1.9,5.2-2,3.4-1.9,3-2.1-10.5-1.9,4-2-4.3-2.1-9.2-1.9,.8-2.1-6.3-1.6,15.5-1.9,2.6-2-8.4-2.1-6.8-2.4-24.2-1.5,16.3-1.8,3.6-1.6,9.7-2.3-18.2-1.7,6.5-1.8,0-2-5.7-2.2-12.2-1.5,11.2-2-8-1.6,10-2-8.5-1.9-1.6-1.4,10-1.6,5.6-2.2-12.5-1.8-1.9-1.7,.1-1.5,8-1.9-5.1-1.5,8-2.2-15.2-1.7,1.5-1.6,2.9-2-7.4-1.5,5.7-2.3-15.8-1.6,2.1-2.2-12.8"/>
<path color="#f20" d="M46,683.9l-.6-3.2-3.6,19.1 .4-.3zM47.6,693.5l-.3-2.2-4.5,.6 .2-3.7z"/>
<path color="#f40" d="M47.3,691.3l-.4-2.1-.4-2.1-.5-3.2-3.8,15.6 .4-.3 .1-3.7 .1-3.6zM48.2,692.8l-.3,.3-.3,.4-4.6-5.3 .4,4.7 .5,4.6zM49.6,694l-.4-2.6-.2,.3-.3,.4-4.2,6.1 .1-4 .1-4.1 .6,6z"/>
<path color="#f60" d="M48.7,692.1l-.3,.3-.2,.4-4.3,4.7 .5,4.7 .1-4zM50,696.7l-.4-2.7-4.3,2.1 .5,6zM83.5,706.4l-.4-2-.4,2.8-4.4-.1 .3-4.7 .6,7.6z"/>
<path color="#f90" d="M50.4,699.3l-.4-2.6-4.2,5.4 .5,6zM80.6,711.6l-1-4-4.5-1.4 1,3.7zM98,704.4l-.2,2.7-4.1,11.8 .3,.7z"/>
<path color="#fa0" d="M51.5,707.2l-.3-2.6-.4-2.6-.4-2.7-4.1,8.8 .3-.9 .2-.9 .3-.9zM65.9,708.8l-.3,0-.2,0-.4,2-4.4-.7 .2-4.5 .4,2.7 .4,2.6zM68.3,710l-.3-.3-.9-1-.3,0-.3,.1-4.4,1 .2-3.7 .2-3.7 1,3.1 .4,4.6zM83.8,708.5l-.3-2.1-4.3,3.6 .5,7.6zM97.8,707.1l-.3,2.8-.2,2.7-4.3,5.1 .3,.6 .4,.6zM98.6,710.5l-.6-6.1-4,15.2 .6,4.8z"/>
<path color="#fc0" d="M68.6,710.3l-.3-.3-4.4,.1 .5,4.6zM85.6,717.6l-.3-1-.4-2-.4-2.1-.3-2-.4-2-4.1,9.1 .5,7.6 .2-4.2 .2-4.3 .2-4.2 .4,4.6zM99.2,716.6l-.6-6.1-4,13.9 .6,4.8z"/>
<path color="#ef0" d="M91.9,724.9l-1.1-9.1-4.1,11.8 1.1,5.2zM100.4,728.6l-.4-4-.4-4-4.1,8 .3-.6 .3-.5zM109,728.9l-.5-1.6-4.3,1 .6,3.8z"/>
<path color="#fe0" d="M95.3,723.1l-.3,.6-.3,.6-4.5-5.3 .4,2.2 .3,2.2zM99.6,720.6l-.4-4-4,12.6 .3-.6zM108.5,727.3l-.5-1.6-4.4-1.2 .6,3.8z"/>
<path color="#df0" d="M112,731.2l-1,.4-.9,.4-1.1-3.1-4.2,3.2 1,5.3 1-2.3 .9-.4z"/>
<path color="#be0" d="M113,735.8l-1-4.6-4.3,3.5 1.1,6.4z"/>
<path color="#9e0" d="M114.1,740.4l-1.1-4.6-4.2,5.3 1,3.6zM118.5,743.4l-.5-2.7-4.2,4.3 .4,.1zM126.3,741.1l-.4-1.5-1,2.6-.4,1.3-4.3,5.8 .5-3.8 1-.7 .4,4z"/>
<path color="#8e0" d="M118,740.7l-.5,1-.5,1-.4,1-.5,1-.5-1.1-.5-1.1-1-2.1-4.3,4.3 1.1,4.8 .5-1.6 .4-1.7 .6,2.7 .5,2.6 .4-3.2 .5-3.3zM119.6,748.6l-.6-2.6-.5-2.6-4.3,1.7 .5,0 .6,5.2zM124.5,743.5l-.5,1.3-.4,.5-.3,.6-.3,.6-1,1.7-4.3-2.3 1-1.9 .3,3 .4,3.1 .4,3 .4-3.8zM127,744.1l-.4-1.5-.3-1.5-4.2,7.7 .3,4 .4,4zM128,748.6l-.3-1.5-4.3,5.5 .4-2.1z"/>
<path color="#6e0" d="M127.7,747.1l-.4-1.5-.3-1.5-4.2,12.7 .3-2.1 .3-2.1zM128.7,749.5l-.4-.4-.3-.5-4.2,1.9 .3,3.2 .4,3.1z"/>
<path color="#4e0" d="M131.1,756.6l-1.1-5.5-1-1.2-.3-.4-4.2,7.3 .4,3.1 .9-2.2 1.1,3.6zM136.5,756.3l-.3,.1-4.3,3.1 .4,3.4z"/>
<path color="#0e2" d="M132.8,761.8l-.3,.1-.3,.2-1.1-5.5-4.2,4.7 1.1,6.9 .3-3.4 .3-3.5zM135.2,758.8l-.5,1.3-.5,1.2-.4,.2-4.2,1.2 .4,2.4 .5,1.4 .5,1.4zM140.3,768.2l-1-6-.4-2-4.2,7.1 .4-1.2 1,4.2zM145.5,766.3l-.6-1.9-4.2,4 .6,4.4z"/>
<path color="#2e1" d="M133.8,761.5l-.3,.1-.3,.1-.4,.1-4.2-.5 .3-3.4 .3,2.4 .4,2.4zM138.9,760.2l-.3-2-.4-2-1,.1-.4,0-.3,0-4.2,6.6 .4,3.4 .3,3.4 1.1,.1 .3-1.2 .3-1.3zM144.9,764.4l-.5-1.9-.5,1.5-4.2,3.1 .5-3 .5,4.3z"/>
<path color="#0e7" d="M147.9,772.2l-.3-.5-.6-.7-.5-.8-1-3.9-4.2,6.5 1,2.4 .5-2.5 .5-2.4 .4,4.1z"/>
<path color="#0ed" d="M148.6,773.2l-.3-.5-.4-.5-4.2,2.2 .4,4.1 .3,4.1z"/>
<path color="#0cf" d="M150.2,778.7l-.5-1.8-1.1-3.7-4.2,9.4 1.1-.1 .5,3.6z"/>
<path color="#09f" d="M154.4,783.5l-.5-1.6-.6-1.6-.5-1.7-.5,.5-.5,.5-.6,.5-.5,.5-.5-1.9-4.2,7.4 .6,3.6 .5-2.1 .5-2.2 .5,1.5 .5,1.6 .6-.6 .5-.6 .5,3.2z"/>
<path color="#07f" d="M156,787.6l-1.1-2.4-.5-1.7-4.2,7 .6,3.2 1,.7z"/>
<path color="#05f" d="M158.1,795l-1.1-5-1-2.4-4.2,6.8 1.1-1.7 1,5.4z"/>
<path color="#00f" d="M160.2,802.1l-1.1-2.1-1-5-4.2,3.1 1.1,3.6 1,1.8z"/>
<path color="#20f" d="M161.2,804.1l-1-2-4.2,1.4 1.1,2.9z"/>
<path color="#50e" d="M163.3,810.7l-1-3.3-1.1-3.3-4.1,2.3 1.1,3 1,3.9z"/>
<path color="#70d" d="M164.4,814.8l-1.1-4.1-4.1,2.6 1.1,4z"/>
<path color="#70c" d="M165.4,818.9l-1-4.1-4.1,2.5 1.1,3.9z"/>
<path color="#70a" d="M167.6,822.1l-1.1-1.6-1.1-1.6-4,2.3 1,1.6 1.1,1.4z"/>
<path color="#708" d="M182.7,827.9l-1.1-.4-1.1-.4-1.1-.4-1-.4-1.1-.4-1.1-.4-1.1-.4-1.1-.4-1.1-.4-1-.4-1.1-.4-1.1-.4-1.1-.5-1-.5-4.1,2.1 1,.5 1.1,.4 1.1,.4 1.1,.4 1.1,.5 1,.4 1.1,.4 1.1,.4 1.1,.4 1.1,.4 1.1,.4 1.1,.4 1.1,.4 1.1,.4z"/>
<path color="#fc0" d="M42.6,699.2l-.4,.3-.4,.3-3.7,19.1 .3-3.8 .2-3.8zM52.3,708.6l-.5-1.5-4.5,.3 .6,3.7zM64.4,714.7l-.5-4.6-4.4,.1 .6,8.9zM68,717.8l-.4-2.9-4.6-4.5 .5,6.8zM74.4,712.6l-.1,5.7-4.3,4 0-9.7zM79.7,717.6l-.5-7.6-4.4,3.7 .7,13.1zM90.6,721.2l-.4-2.2-.1,6.8-4.4-.1-.1-12.1 .5,5.1zM93.3,718.3l-.3-.6-4.3,5.1 .4,4z"/>
<path color="#f00" d="M43.4,692.9l-.4-4.7-.2,3.7-4.4,.5-.2-9.6 .7,9.8z"/>
<path color="#f60" d="M43.9,697.5l-.5-4.6-4.5-.3 .7,9.7zM49.9,703l-.5-3.8-.1,5.3-4.5,.5-.2-11.8 .7,5.6zM63.5,705.5l-1-3.1-.2,3.7-4.6-2.6 .1-7.5 1,5.3zM79.2,710l-.6-7.6-.3,4.7-4.4-.1 .2-6.6 .7,13.3z"/>
<path color="#f40" d="M45.3,696.1l-.6-6-4.5-1.3 .7,9.4z"/>
<path color="#f90" d="M45.8,702.1l-.5-6-4.4,2.1 .6,9.4zM50.5,706.7l-.6-3.7-4.6-4.2 .6,5.7zM63.9,710.1l-.4-4.6-4.7-4.2 .7,8.9zM76.1,709.9l-1-3.7-.7,6.4-4.4,0 .6-7.9 1,3.4z"/>
<path color="#fa0" d="M51.8,707.1l-.5-1.5-.8,1.1-4.6-2.2 .9-.9 .5,3.8zM67.6,714.9l-.4-2.9-.2,3.1-4.6-6.2 .1-5.4 .5,6.9zM81.2,717.1l-.4-4.6-.2,4.2-4.4,2.2 0-10.7 .6,8.4z"/>
<path color="#fe0" d="M52.7,711.5l-.4-2.9-4.4,2.5 .6,6.2zM60.3,714.6l-.9-.4-.9,.2-.4,.8-4.3,2.3 .3-3 .7-2.9 1.1,4.7zM81.6,721.7l-.4-4.6-4.4-.5 .5,8.3zM90.9,723.4l-.3-2.2-4.5-2.5 .4,5zM93.7,718.9l-.4-.6-4.2,8.5 .4,4zM104.2,728.3l-.6-3.8-4.4-1.3 .6,6.1z"/>
<path color="#ef0" d="M53.1,714.5l-.4-3-4.2,5.8 .5,6.2zM58.1,715.2l-.4,.9-.7,3.1-4.3,3.5 .7-2.2 .4-3zM68.4,720.7l-.4-2.9-4.5-.6 .6,6.7zM74.3,718.3l-.2,5.6-4.1,8 0-9.6zM84.3,724.5l-.5-2.6-4.5-.4 .7,5.2zM92.2,724l-.9,1.6-.4-2.2-4.4,.3 .5,5 .9-1.2zM94.6,724.4l-.6-4.8-.3-.7-4.2,11.9 .5,4 .5,3.5zM104.8,732.1l-.6-3.8-4.4,1 .6,6.1z"/>
<path color="#df0" d="M55.7,718.3l-.5-.8-.5-.8-.4-.8-4,11.4 .3-2.2 .4-2.2 .3-2.1zM85.8,727l-.9,.1-.6-2.6-4.3,2.2 .6,5.3 1,2.9zM97.1,732.8l-1-5.3-4.5-1.2 1.2,7.2z"/>
<path color="#be0" d="M95.5,728.6l-.3,.6-.6-4.8-4.1,13.9 .6,3.5 .2-5.1zM97.7,737.4l-.6-4.6-4.3,.7 .6,7.5zM107.7,734.7l-.9,.4-1,2.3-1-5.3-4.4,3.3 1.2,7.4 .8-4.2 1-.4z"/>
<path color="#8e0" d="M98.7,740.5l-.4,1.5-.6-4.6-4.3,3.6 .7,7.5 .3-5zM109.8,744.7l-1-3.6-4.3,5.4 1.1,2.6zM119.4,750.1l-.4-3.1-4.3,1.2 .5,6.7zM122.1,748.8l-.4-4-1,.7-.5,3.8-4.2,5.9 .4-6.3 1,1.1 .4,6.6z"/>
<path color="#2e1" d="M103.1,747l-.8,5.9-4.1,11.7 .9-4zM123.1,754.7l-.3,2.1-.4-4-4.1,10.3 .4,6.4 .2-5.6zM126.9,761.3l-1.1-3.6-4.2,6.6 1,1.8zM129.6,762.7l-.4-2.4-4.3-1.4 .4,5zM132.3,762.9l-.4-3.4-.4,4.2-4.3,6.2 .5-7.1 .4,6.8z"/>
<path color="#6e0" d="M103.3,739.6l-.2,7.4-4,13.6 0-12.4zM124.1,753.7l-.3-3.2-.4,2.1-4.2,5.6 .2-5.8 .5,5.9z"/>
<path color="#9e0" d="M103.5,732l-.2,7.6-4.2,8.6 .1-12.4zM108.8,741.1l-1.1-6.4-4.3,3.5 1.1,8.3zM119,747l-.3-3-1,1.9-4.4-2.3 1-2.1 .4,6.7z"/>
<path color="#4e0" d="M120.2,749.3l-.4,3.8-.4-3-4.2,4.8 .4,6.6 .4-6.3zM122.4,752.8l-.3-4-4.3,7.8 .5,6.5zM124.5,756.8l-.4-3.1-4.2,4.6 .4,5.9zM129.2,760.3l-.3-2.4-.3,3.4-4.3-.5 .2-6.8 .4,4.9z"/>
<path color="#0e2" d="M125.8,757.7l-.9,2.2-.4-3.1-4.2,7.4 .4,5.9 .9-5.8zM130,765.1l-.4-2.4-4.3,1.2 .4,4.9zM140.7,768.4l-.5-4.3-.5,3-4.3,3.1 .5-4.4 .6,6.7z"/>
<path color="#0e7" d="M131.5,763.7l-.5,4.2-.5-1.4-.5-1.4-4.3,3.7 .6,4.2 .5,4.1 .4-7.2zM132.7,766.3l-.4-3.4-4.2,6.7 .4,6.8zM136.1,770.3l-1-4.2-.4,1.2-.3,1.3-4.2,10.4 .3-4.5 .3-4.5 1.1,2.5zM141.3,772.8l-.6-4.4-4.2,4.1 .6,6.8zM143.7,774.4l-.4-4.1-.5,2.4-4.2,1.8 .5-5.7 .4,7.8z"/>
<path color="#0ed" d="M133,769.7l-.3-3.4-4.2,10.1 .4,6.8zM136.5,772.8l-.4-2.5-4.2,2.2 .3,4.9zM142.8,772.7l-.5,2.5-1-2.4-4.2,6.5 1,.9 .5-5.7zM144.1,778.5l-.4-4.1-4.2,2.2 .4,7.8z"/>
<path color="#0cf" d="M134.1,769.8l-1.1-.1-4.1,13.5 1,.3zM137.5,774.9l-.3,2.9-4.2,9.5 .3-6z"/>
<path color="#09f" d="M145.5,782.5l-1.1,.1-.3-4.1-4.2,5.9 .4,7.7 1-4z"/>
<path color="#07f" d="M146,786.1l-.5-3.6-4.2,5.6 .5,5.4zM148.1,786.9l-.5-1.5-.5,2.2-4.2,7.5 .5-3.9 .5,3.7z"/>
<path color="#05f" d="M147.1,787.6l-.5,2.1-.6-3.6-4.2,7.4 .6,5.4 .5-3.8zM149.2,787.9l-.6,.6-.5-1.6-4.2,8 .6,3.6 .5-2.9zM150.2,790.5l-.5-3.2-4.2,5.4 .5,4.8z"/>
<path color="#02f" d="M151.8,794.4l-1-.7-.6-3.2-4.2,7 .6,4.7 1-.9zM153.9,798.1l-1-5.4-4.2,2.7 1,5.8z"/>
<path color="#00f" d="M156,803.5l-1-1.8-1.1-3.6-4.2,3.1 1.1,2.2 1.1,1.6z"/>
<path color="#20f" d="M157.1,806.4l-1.1-2.9-4.1,1.5 1,3.8z"/>
<path color="#50e" d="M159.2,813.3l-1-3.9-1.1-3-4.2,2.4 1.1,2.5 1.1,4.6z"/>
<path color="#70c" d="M161.4,821.2l-1.1-3.9-1.1-4-4.1,2.6 1,3.9 1.1,3.6z"/>
<path color="#70a" d="M163.5,824.2l-1.1-1.4-1-1.6-4.2,2.2 1.1,1.8 1,1.1z"/>
<path color="#708" d="M178.7,830l-1.1-.4-1.1-.4-1.1-.4-1.1-.4-1.1-.4-1.1-.4-1.1-.4-1.1-.4-1-.4-1.1-.5-1.1-.4-1.1-.4-1.1-.4-1-.5-4.2,2.1 1.1,.5 1.1,.4 1.1,.4 1,.4 1.1,.4 1.1,.4 1.1,.4 1.1,.4 1.1,.4 1.1,.4 1.1,.5 1.1,.4 1.1,.4 1.1,.4z"/>
<path color="#9e0" d="M38.4,715.1l-.3,3.8-3.6,19 .1-7.2zM45,716.7l.2,11.6-3.9,13.5-.5-18zM51,722.9l-.4,2.2-4.1,8.5 .2-5.2zM65.6,725.5l-.1,6.3-4.1,10.5 0-8.6zM81.6,734.9l-1-2.9-4.3,4.9 1.1,6.1zM85.1,741.5l-.5-8.2-4.4,.5 .7,13.1zM90,734.8l-.5-4-4.1,11.9 .5,7.3zM95.4,744.3l-.6-5.8-.4,5-4.3,3 .2-8.6 .7,7.7zM102.4,738.6l-.8,4.2-1.2-7.4-4.3,3.4 1.2,9.5 .8-6.1zM104.5,746.5l-1.1-8.3-4.3,3.6 1.1,10.2zM110.4,744.2l-.5,2.6-4.4,1.8 .4-5.2zM113.3,743.6l-.8,7.3-4.4,.6 .8-10.3zM114.7,748.2l-.4-6.7-4.5-2.6 .5,10.5z"/>
<path color="#df0" d="M38.6,711.3l-.2,3.8-3.8,15.6 .1-7.2zM51.3,720.8l-.3,2.1-4.3,5.5 .2-5.1zM53.4,720.5l-.7,2.2-1-4-4.6-.5 1.2,8 .8-1.3zM65.7,719.1l-.1,6.4-4.2,8.2 0-8.7zM80.6,732l-.6-5.3-4.4,2.3 .7,7.9zM85.7,725.7l0,12-4.3,5.2-.2-17.3zM89.5,730.8l-.4-4-4.2,8.5 .5,7.4zM100.4,735.4l-.6-6.1-4.4,1.1 .7,8.4z"/>
<path color="#fe0" d="M38.5,701.9l.1,9.4-3.9,12.2-.5-15.2zM40.3,704.3l0,7.7-4,9.9-.3-11.4zM42.4,708l-.1,4.5-4.3,5.3 0-8.1zM44.8,705l.2,11.7-4.2,7.1-.5-18.3zM48.5,717.3l-.6-6.2-4.4,2.6 .7,9.4zM54.1,714.5l-.3,3-4.5,2.3 .3-5.1zM57.7,710.9l0,7.4-.5-5.3-4.4,2.1 .6,8-.2-11.1zM60.7,713.2l0,7.4-4.3,4-.2-12.2zM67.4,718.1l-.8,.8-4.3,5.4 .8-1.6zM70,712.6l0,9.7-4.4,4.1-.2-13.8zM77.3,724.9l-.5-8.3-4.6-.5 .7,12.1zM79.3,721.5l-.9,.6-4.4-.1 .9-.9zM99.8,729.3l-.6-6.1-4.5-1.3 .7,8.5z"/>
<path color="#f60" d="M38.4,692.4l.1,9.5-4.3,6.4-.4-15.4zM39.6,702.3l-.7-9.7-4.5-.3 .9,14.9zM45.9,704.5l-.6-5.7-4.7-4.2 .7,7.6zM56.7,707.7l-.5-5.4-4.6-3.3 .6,8.1zM59.5,710.2l-.7-8.9-4.7-4.3 .8,13.4zM63,710.4l-.5-6.9-4.9-8.6 .7,10.9zM71.6,708.1l-1-3.4-4.6-1.4 1,3.1zM74.8,713.7l-.7-13.3-4.6-2.1 .9,19z"/>
<path color="#f00" d="M38.9,692.6l-.7-9.8 .2,9.6-4.6,.5-.4-15.6 1,15z"/>
<path color="#fc0" d="M40.3,712l-.7-9.7-4.3,4.9 1,14.7zM43.7,711.7l-.6-4.1-4.5,.9 .7,6.8zM47.9,711.1l-.6-3.7-4.5,.3 .7,6zM56.1,709.3l-.2,7-1.1-4.7-.7,2.9-4.5,.2 .6-5.8 1.2,9.2 .1-9.5zM60.1,719.1l-.6-8.9-4.6,.2 .8,13.2zM62.2,714.2l-.1,5.3-.6-6.9-4.7-3.7 .8,8.8 0-7.5zM73.6,713.6l-.8,4-4.4,1 .8-3.2zM86.5,723.7l-.4-5-4.6-2.6 .6,7.9z"/>
<path color="#f90" d="M40.2,696.6l.1,7.7-4.3,6.2-.2-11.4zM47.3,707.4l-.5-3.8-.9,.9-4.6-2.3 .8-.6 .7,6.1zM56.2,702.3l-.1,7-4.6-.7 .1-9.6zM57.7,703.5l0,7.4-4.5,1.1-.1-11.2zM61.5,712.6l-.7-6.9-.1,7.5-4.5-.8-.2-12.4 .8,8.9zM62.4,708.9l-.2,5.3-4.6-4 0-7.7zM70.6,704.7l-.6,7.9-4.6,0 .6-9.3zM72.2,712.9l-.6-4.8-4.6-1.7 .7,6.1zM73.9,707l-.3,6.6-4.4,1.8 .1-8.5zM76.8,716.6l-.6-8.4-4.7-4.3 .7,12.2zM86.1,718.7l-.5-5.1-4.6-5.4 .5,7.9z"/>
<path color="#f20" d="M40.9,698.2l-.7-9.4 0,7.8-4.4,2.5-.2-11.6 .8,12.9zM45.3,698.8l-.7-5.6-4.8-6.2 .8,7.6zM58.8,701.3l-1-5.3-.1,7.5-4.6-2.7-.1-11.3 1.1,7.5z"/>
<path color="#fa0" d="M41.5,707.6l-.6-9.4-4.5,2.2 .9,12.8zM43.1,707.6l-.6-4.1-.1,4.5-4.4,1.7-.1-8.2 .7,7zM57.2,713l-.5-5.3-4.5-.6 .6,8zM63.5,717.2l-.5-6.8-4.7-4.6 .7,10.7zM72.8,717.6l-.6-4.7-4.5-.4 .7,6.1zM76.2,708.2l0,10.7-4.4,2.1-.3-17.1zM85.6,713.6l.1,12.1-4.5-.1-.2-17.4z"/>
<path color="#ef0" d="M42.3,712.5l-.1,4.5-.7-9.4-4.2,5.6 .8,12.6-.1-8zM44.2,717.2l-.5-5.5-4.4,3.6 .7,8.9zM51.7,718.7l-.4,2.1-4.4,2.5 .2-5.1zM53.8,717.5l-.4,3-4.3,4.4 .2-5.1zM64.1,723.9l-.6-6.7-4.5-.7 .7,10.7zM66.6,718.9l-.9,.2-4.3,5.9 .9-.7zM67.9,723.6l-.5-5.5-4.3,4.6 .6,7.4zM75.5,726.8l-.7-13.1-4.4,3.6 1,18.8zM76.2,718.9l0,10.5-4.2,8.5-.2-16.9zM78.4,722.1l-.2,5.6-4.4,3.4 .2-9.1zM80,726.7l-.7-5.2-4.4-.4 .7,7.9zM84.6,733.3l-.5-8.2-.2,5.3-4.5-.3 .1-9.5 .7,13.2zM89.1,726.8l-.4-4-.8,4.7-.9,1.2-.5-5-4.4,.3 .5,7.8 .9-.9 .9-2.9 .5,7.3zM92.8,733.5l-1.2-7.2-.2,5.2-4.3,3.5 0-9.8 1.2,9zM99.2,723.2l0,12.6-4.4,3.8-.1-17.7z"/>
<path color="#be0" d="M44.7,722.8l-.5-5.6-4.2,7 .7,8.8zM49,723.5l-.5-6.2-4.3,5.8 .7,9.4zM60.7,720.6l0,7.4-.6-8.9-4.4,4.5 .8,13.1-.1-12.1zM64.5,728.7l-.4-4.8-4.4,3.3 .6,8zM68.4,729l-.5-5.4-4.2,6.5 .5,7.5zM70,722.3l0,9.6-4.2,8.1-.2-13.6zM78.2,727.7l-.3,5.5-.6-8.3-4.4,3.3 .7,11.9 .2-9zM83.9,730.4l-.1,5.2-4.4,3.9 0-9.4zM91.4,731.5l-.1,5.2-4.3,8.1 .1-9.8zM93.4,741l-.6-7.5-4.5,.7 .8,10.5zM103.4,738.2l-1,.4-4.3,3.6 1-.4zM114.3,741.5l-1,2.1-4.4-2.4 .9-2.3z"/>
<path color="#8e0" d="M45.2,728.3l-.5-5.5-4,10.2 .6,8.8zM49.5,729.6l-.5-6.1-4.1,9 .6,9.3zM50.6,725.1l-.3,2.2-4,11.5 .2-5.2zM65,733.3l-.5-4.6-4.2,6.5 .6,7.8zM68.9,734.4l-.5-5.4-4.2,8.6 .6,7.3zM76.2,729.4l0,10.5-.7-13.1-4.1,9.3 .9,18.5-.3-16.7zM82.6,739.5l-1-4.6-4.2,8.1 1.1,8.4zM83.8,735.6l-.2,5.2-4.2,8 0-9.3zM90.5,738.3l-.5-3.5-4.1,15.2 .5,2.3zM91.3,736.7l-.2,5.1-4.1,12.7 0-9.7zM99.2,735.8l-.1,12.4-4.2,8.8-.1-17.4zM109.9,746.8l-.4,2.6-4.3,4.4 .3-5.2zM111,752.1l-.6-7.9-4.5-.8 .7,10.5zM117.4,750l-1-1.1-4.3,3.4 1,3z"/>
<path color="#f40" d="M44.6,693.2l.2,11.8-4.5,.5-.5-18.5zM62.5,703.5l-.1,5.4-4.8-6.4 0-7.6zM74.1,700.4l-.2,6.6-4.6-.1 .2-8.6z"/>
<path color="#6e0" d="M50.3,727.3l-.8,2.3-4,12.2 .8-3zM65.5,731.8l-.1,6.2-.4-4.7-4.1,9.7 .5,7.8 0-8.5zM70,731.9l0,9.6-4.1,11.9-.1-13.4zM83.6,740.8l-1-1.3-4.1,11.9 .9-2.6zM91.1,741.8l-.6-3.5-4.1,14 .6,2.2zM94.4,743.5l-.3,5-.7-7.5-4.3,3.7 .7,10.5 .3-8.7zM96,750.1l-.6-5.8-4.4,1.3 .6,7.7zM105.6,749.1l-1.1-2.6-4.3,5.5 1,1.5zM108.1,754.1l-.6-6.3-.4,4.4-4.3,4.3 .3-7 .7,9.9zM112.5,750.9l-.5,4.5-4.3,2.6 .4-6.5zM115.2,754.9l-.5-6.7-4.4,1.2 .6,10.3zM116.4,748.9l-.4,6.3-4.3,6 .4-8.9zM124.9,758.9l-.4-4.9-.2,6.8-4.4-.5 .2-10.3 .4,7.6z"/>
<path color="#4e0" d="M70,741.5l-1.1-7.1-4.1,10.5 1.1,8.5zM85.7,737.7l0,11.9-.6-8.1-4.2,5.4 .6,13-.1-17zM106.7,756.5l-1.1-7.4-4.4,4.4 1.2,10.1zM109.5,749.4l-.4,5.5-4.3,6.6 .4-7.7zM111.6,760l-.6-7.9-4.4,1.8 .7,10.5zM117.8,756.6l-.4-6.6-4.3,5.3 .5,9zM119.9,758.3l-.5-5.9-.2,5.8-4.3,5.6 .2-9.4 .5,8.6zM125.3,763.9l-.4-5-4.4-1.3 .5,7.5z"/>
<path color="#2e1" d="M96.4,754.7l-.4-4.6-4.4,3.2 .5,7.1zM107.1,752.2l-.4,4.3-4.3,7.1 .4-7.1zM112,755.4l-.4,4.6-4.3,4.4 .4-6.4zM116,755.2l-.4,6.3-.4-6.6-4.3,4.8 .5,10.3 .3-8.8zM124.3,760.8l-.3,6.8-4.3,2.9 .2-10.2z"/>
<path color="#0e2" d="M96.8,759.2l-.4-4.5-4.3,5.7 .5,7zM99.1,748.2l0,12.4-4.1,13.6-.1-17.2zM109.1,754.9l-.4,5.4-.6-6.2-4.3,5.3 .7,9.9 .3-7.8zM118.3,763.1l-.5-6.5-4.2,7.7 .5,9.1zM119.2,758.2l-.3,5.7-4.2,9.2 .2-9.3zM120.3,764.2l-.4-5.9-4.3,4.7 .4,8.7zM122.6,766.1l-1-1.8-4.2,6.7 1-.1zM125.7,768.8l-.4-4.9-4.3,1.2 .4,7.5zM128.1,769.6l-.4-6.8-.5,7.1-4.2,6.3 .4-10.2 .4,10.3zM136.5,772.5l-.6-6.7-.5,4.4-4.3,3.2 .5-6 .6,9.2zM139.5,776.6l-.4-7.8-.5,5.7-4.3,1.8 .4-9 .5,11.6z"/>
<path color="#0ed" d="M97.3,763.8l-.5-4.6-4.2,8.2 .5,7.1zM118.9,763.9l-.2,5.6-.4-6.4-4.2,10.3 .4,8.9 .2-9.2zM120.7,770.1l-.4-5.9-4.3,7.5 .5,8.6zM124,767.6l-.2,6.8-1.2-8.3-4.2,4.8 1.1,9.7 .2-10.1zM126.3,773l-.6-4.2-4.3,3.8 .6,6.9zM130.8,770l-.3,4.5-4.2,7.3 .2-7.9zM132.2,777.4l-.3-4.9-4.4,2.2 .5,7.4zM137.1,779.3l-.6-6.8-4.3,4.1 .6,9.2zM138.6,774.5l-.5,5.7-4.3,5 .5-8.9z"/>
<path color="#0cf" d="M99.1,760.6l-.9,4-.9-.8-4.2,10.7 1,1.8 .9-2.1zM127.2,769.9l-.4,7.2-.5-4.1-4.3,6.5 .6,6.8 .4-10.1zM128.5,776.4l-.4-6.8-4.3,6.7 .5,10.3zM130.5,774.5l-.3,4.5-4.2,10.5 .3-7.7zM133.6,775.4l-.3,5.9-4.2,6.6 .2-9.1zM138.1,780.2l-1-.9-4.3,6.5 1-.6zM139.9,784.4l-.4-7.8-4.3,2.3 .4,11.4z"/>
<path color="#0e7" d="M121.6,764.3l-.9,5.8-4.2,10.2 .9-9.3zM131.9,772.5l-1.1-2.5-4.3,3.9 1,.8zM135.4,770.2l-.4,4.5-1.1-5.3-.3,6-4.3,3.4 .3-9.1 1.1,9.6 .4-5.9z"/>
<path color="#07f" d="M128.9,783.2l-.4-6.8-4.2,10.2 .5,10.1zM130.2,779l-.3,4.5-4.1,13.8 .2-7.8zM133.3,781.3l-.3,6-.4-4.9-4.2,7.1 .4,7.3 .3-8.9z"/>
<path color="#05f" d="M129.9,783.5l-1-.3-4.1,13.5 1,.6zM141.8,793.5l-.5-5.4-1,4-.4-7.7-4.3,5.9 .5,11.4 .9-7.9 .6,7.2z"/>
<path color="#09f" d="M132.6,782.4l-.4-5-4.2,4.7 .4,7.4z"/>
<path color="#00f" d="M142.9,795.1l-.5,3.8-.6-5.4-4.2,7.5 .6,7.2 .5-5.6zM145,795.6l-.5,2.9-.6-3.6-4.2,7.9 .6,5.8 .5-5.2zM146.6,802.2l-.6-4.7-4.2,7 .6,6.3zM151.9,805l-1.1-1.6-1.1-2.2-4.2,3.2 1.1,.7 1,1.4z"/>
<path color="#02f" d="M143.9,794.9l-.5-3.7-.5,3.9-4.2,7.5 .4-5.5 .6,5.7zM146,797.5l-.5-4.8-.5,2.9-4.2,7.8 .4-5.2 .6,6.3zM149.7,801.2l-1-5.8-1.1,5.9-4.2,7 1-10.1 1.1,6.2z"/>
<path color="#20f" d="M147.6,801.3l-1,.9-4.2,8.6 1-2.5zM152.9,808.8l-1-3.8-4.3,1.5 1.1,4.7z"/>
<path color="#50e" d="M154,811.3l-1.1-2.5-4.2,2.4 1.1,2.1z"/>
<path color="#70d" d="M155.1,815.9l-1.1-4.6-4.2,2 1.1,5.3z"/>
<path color="#70c" d="M156.1,819.8l-1-3.9-4.2,2.7 1,3.8z"/>
<path color="#70a" d="M158.3,825.2l-1.1-1.8-1.1-3.6-4.2,2.6 1.1,3.3 1.1,1.8z"/>
<path color="#708" d="M174.6,832.1l-1.1-.4-1.1-.4-1.1-.4-1.1-.5-1.1-.4-1.1-.4-1.1-.4-1.1-.4-1.1-.4-1.1-.4-1-.4-1.1-.4-1.1-.4-1.1-.5-1-1.1-4.2,2.3 1,.9 1.1,.5 1.1,.4 1.1,.4 1.1,.4 1,.4 1.1,.4 1.1,.4 1.1,.4 1.1,.4 1.1,.5 1.1,.4 1.1,.4 1.1,.4 1.1,.4z"/>
<path fill="none" stroke="#8c8c8c" stroke-width=".4" stroke-opacity=".7" d="M161.2,804.1L148.7,811.2M140.3,768.2L127.5,774.7M120.1,751.2L107.3,764.4M100.4,728.6L87.1,725.2M81.6,715.6L68.4,718.6M63.9,716.8L50.2,708.9"/>
<path fill="none" stroke="#858585" stroke-width=".55" d="M170.4,834.2l-1.1-.4-1.1-.4-1.1-.4-1.1-.4-1.1-.5-1.1-.4-1.1-.4-1.1-.4-1.1-.4-1-.4-1.1-.4-1.1-.4-1.1-.4-1.1-.5-1-.9-1.1-1.8-1.1-3.3-1-3.8-1.1-5.3-1.1-2.1-1.1-4.7-1-1.4-1.1-.7-1.1-6.2-1,10.1-1,2.5-1.2-12.6-.9,10.4-1.2-11.5-.9,11.1-1.2-14.4-.9,7.9-1.4-34.4-.9,17.9-1,.6-1.2-18.4-.9,11.9-1.1-9.6-.8,27.1-1.3-22.1-1-.8-.7,23.4-1-.6-1.4-30.7-.8,20.3-1.2-13.7-1.3-22.6-.6,30.6-1.1-9.7-1,.1-.9,9.3-1.4-25.9-.6,27.9-1.4-27-1-3-.7,17.7-1.6-31.1-.9,2.3-.8,10.3-.8,12.9-1.4-21-.7,10.4-.7,15.5-1.4-19.8-.7,14.1-1.2-10.1-1-1.5-1.1-10.2-1,.4-.8,6.1-1.2-9.5-1.4-16.9 .3,52.3-.9,2.1-1-1.8-1.5-21.2-1.3-15.4-.5,17.3-1.5-21-1.2-9-.1,29.3-1.1-4.5-1.5-22-.9,2.9-.9,.9-1.6-23.6 .5,51.7-2-39.3-.1,28.2-.9,2.6-1.1-8.4-1.1-6.1-1.4-15.8-.9,.9-.4,18.1-2.1-36.2 .8,50.7-2.8-56.3-.3,17.1-.8,3.2-1.4-12.2-1-3.1-.6,9.3 .5,40.8-1.1-8.5-1.7-22.2-.8,1.6-.9,.7 0,25.8-1.7-23.6-2.1-32.3 0,22.8-1.6-17.7 .5,36.7-2.4-39.7-1.1-7.5 .4,33.6-1.8-24.1-.2,19.1-1.2-9.2-.6,5.8-.5,10.2-.8,1.3-1.2-8-.4,10.2-.4,10.4-.8,3-2-28.1-1.4-12.1-.8,.6-1.5-15.2 1.5,54.8-2-26.5-1.4-13.8 .2,24.3-2.5-38.3 .7,34.4-2.9-44.6 1.3,46.2-.2,14.4"/>
</g>
<path d="M37.1,793.9L29.5,629.9M170.4,840.5L37.1,793.9M170.4,840.5L275.5,786.6" stroke="#1a1a1a" stroke-width=".85" fill="none"/>
<g style="font-family:'Liberation Serif',serif;font-weight:bold;font-size:10.3px" text-anchor="end">
<text transform="matrix(.988,-.15,.04,1,31.7,793.4)">0</text>
<text transform="matrix(.988,-.15,.04,1,30.6,770.8)">20</text>
<text transform="matrix(.988,-.15,.04,1,29.6,747.7)">40</text>
<text transform="matrix(.988,-.15,.04,1,28.5,724.3)">60</text>
<text transform="matrix(.988,-.15,.04,1,27.4,700.5)">80</text>
<text transform="matrix(.988,-.15,.04,1,26.3,676.2)">100</text>
<text transform="matrix(.988,-.15,.04,1,25.1,651.5)">120</text>
</g>
<text transform="translate(4.1,720.4) scale(.86,1) rotate(90)" text-anchor="middle" style="font-family:'Liberation Serif',serif;font-weight:bold;font-size:11.9px">Fz(eV/Å)</text>
<text transform="matrix(0.923,-0.385,1.133,0.397,158.2,841.0)" text-anchor="end" style="font-family:'Liberation Serif',serif;font-weight:bold;font-size:9.8px">20000</text>
<text transform="matrix(0.923,-0.385,1.133,0.397,137.1,833.6)" text-anchor="end" style="font-family:'Liberation Serif',serif;font-weight:bold;font-size:9.8px">40000</text>
<text transform="matrix(0.923,-0.385,1.133,0.397,116.9,826.5)" text-anchor="end" style="font-family:'Liberation Serif',serif;font-weight:bold;font-size:9.8px">60000</text>
<text transform="matrix(0.923,-0.385,1.133,0.397,97.6,819.8)" text-anchor="end" style="font-family:'Liberation Serif',serif;font-weight:bold;font-size:9.8px">80000</text>
<text transform="matrix(0.923,-0.385,1.133,0.397,79.0,813.3)" text-anchor="end" style="font-family:'Liberation Serif',serif;font-weight:bold;font-size:9.8px">100000</text>
<text transform="matrix(0.923,-0.385,1.133,0.397,61.2,807.0)" text-anchor="end" style="font-family:'Liberation Serif',serif;font-weight:bold;font-size:9.8px">120000</text>
<text transform="matrix(0.923,-0.385,1.133,0.397,44.1,801.1)" text-anchor="end" style="font-family:'Liberation Serif',serif;font-weight:bold;font-size:9.8px">140000</text>
<text transform="matrix(0.960,0.281,0.250,0.680,175.9,844.8)" text-anchor="start" style="font-family:'Liberation Serif',serif;font-weight:bold;font-size:9.6px">0</text>
<text transform="matrix(0.960,0.281,0.250,0.680,200.0,832.4)" text-anchor="start" style="font-family:'Liberation Serif',serif;font-weight:bold;font-size:9.6px">5</text>
<text transform="matrix(0.960,0.281,0.250,0.680,222.4,821.0)" text-anchor="start" style="font-family:'Liberation Serif',serif;font-weight:bold;font-size:9.6px">10</text>
<text transform="matrix(0.960,0.281,0.250,0.680,243.3,810.3)" text-anchor="start" style="font-family:'Liberation Serif',serif;font-weight:bold;font-size:9.6px">15</text>
<text transform="matrix(0.960,0.281,0.250,0.680,262.8,800.3)" text-anchor="start" style="font-family:'Liberation Serif',serif;font-weight:bold;font-size:9.6px">20</text>
<text transform="matrix(0.960,0.281,0.250,0.680,281.0,790.9)" text-anchor="start" style="font-family:'Liberation Serif',serif;font-weight:bold;font-size:9.6px">25</text>
<path d="M36.9,789.4l-3.6,0.6M35.8,766.8l-3.6,0.6M34.8,743.7l-3.6,0.6M33.7,720.3l-3.6,0.6M32.6,696.5l-3.6,0.6M31.5,672.2l-3.6,0.6M30.3,647.5l-3.6,0.6M159.5,836.7l-3.2,1.6M138.3,829.3l-3.2,1.6M118.1,822.2l-3.2,1.6M98.8,815.5l-3.2,1.6M80.2,809.0l-3.2,1.6M62.5,802.7l-3.2,1.6M45.4,796.8l-3.2,1.6M170.4,840.5l3.4,1.2M194.5,828.1l3.4,1.2M216.9,816.6l3.4,1.2M237.8,805.9l3.4,1.2M257.3,796.0l3.4,1.2M275.5,786.6l3.4,1.2" stroke="#111" stroke-width=".8" fill="none"/>
<text transform="matrix(0.944,0.330,-1.068,0.548,53.4,834.2)" text-anchor="middle" style="font-family:'Liberation Serif',serif;font-weight:bold;font-size:10.5px">Steps</text>
<text transform="matrix(0.819,-0.420,1.133,0.397,254.5,820.7)" text-anchor="middle" style="font-family:'Liberation Serif',serif;font-weight:bold;font-size:10.0px">Cutting angle(°)</text>
<linearGradient id="gc" x1="0" y1="0" x2="0" y2="1"><stop offset="0.000" stop-color="#300040"/><stop offset="0.012" stop-color="#580068"/><stop offset="0.040" stop-color="#8000a0"/><stop offset="0.100" stop-color="#7000e8"/><stop offset="0.155" stop-color="#0000ff"/><stop offset="0.215" stop-color="#0070ff"/><stop offset="0.275" stop-color="#00e8ff"/><stop offset="0.325" stop-color="#00e810"/><stop offset="0.400" stop-color="#78e800"/><stop offset="0.500" stop-color="#ffff00"/><stop offset="0.575" stop-color="#ff9000"/><stop offset="0.645" stop-color="#ff0800"/><stop offset="0.780" stop-color="#ff0000"/><stop offset="0.900" stop-color="#a80000"/><stop offset="1.000" stop-color="#600000"/></linearGradient>
<rect x="293.7" y="619.8" width="20.2" height="154.2" fill="url(#gc)"/>
<rect x="293.7" y="619.8" width="20.2" height="1" fill="#000"/>
<g style="font-family:'Liberation Serif',serif;font-weight:bold;font-size:8.7px">
<text x="317.4" y="624.4">-4.000</text>
<text x="317.4" y="639.8">9.800</text>
<text x="317.4" y="655.1">23.60</text>
<text x="317.4" y="670.5">37.40</text>
<text x="317.4" y="685.8">51.20</text>
<text x="317.4" y="701.2">65.00</text>
<text x="317.4" y="716.6">78.80</text>
<text x="317.4" y="731.9">92.60</text>
<text x="317.4" y="747.3">106.4</text>
<text x="317.4" y="762.6">120.2</text>
<text x="317.4" y="778.0">134.0</text>
</g>
<g stroke="#000" stroke-opacity=".8" stroke-width=".5" stroke-linejoin="round">
<path fill="#0000ff" d="M375.7,824.2L377.4,824.2L379.1,824.2L380.8,824.2L382.6,824.2L384.3,824.2L386,824.2L387.7,824.2L389.4,824.2L391.1,824.2L392.8,824.2L394.5,824.2L396.3,824.2L398,824.2L399.7,824.2L401.4,824.2L403.1,824.2L404.8,824.2L406.5,824.2L408.3,824.2L409.4,824.2L408.8,804.2L408.3,797.8L407.6,784.3L407.1,764.3L406.6,744.4L406.5,742.5L406.1,724.4L405.3,704.4L406.2,684.5L406.5,672L406.8,664.5L407,644.6L407.5,624.6L406.5,624.6L404.8,624.6L403.1,624.6L401.4,624.6L399.7,624.6L398,624.6L396.3,624.6L394.5,624.6L392.8,624.6L391.1,624.6L389.4,624.6L387.7,624.6L386,624.6L384.3,624.6L382.6,624.6L380.8,624.6L379.1,624.6L377.4,624.6L375.7,624.6L375.7,644.6L375.7,664.5L375.7,684.5L375.7,704.4L375.7,724.4L375.7,744.4L375.7,764.3L375.7,784.3L375.7,804.2z"/>
<path fill="#0080ff" d="M409.4,824.2L410,824.2L411.7,824.2L413.4,824.2L415.1,824.2L416.8,824.2L418.5,824.2L420.3,824.2L422,824.2L423.7,824.2L425.4,824.2L427.1,824.2L428.3,824.2L427.1,806.3L425.4,809.9L423.7,821.8L422,820.2L421.3,804.2L420.3,785.8L418.5,788.5L418.1,784.3L418,764.3L418,744.4L418.2,724.4L418.5,719.4L420.3,720.2L420.5,724.4L422,743.4L423.2,724.4L423.7,714.7L424.7,724.4L424.7,744.4L425.1,764.3L425.4,769L425.7,764.3L426.9,744.4L427.1,742.9L428.8,726.6L428.9,724.4L429.1,704.4L428.8,696.5L428,684.5L427.1,678.7L426,664.5L425.9,644.6L427.1,631.2L427.7,624.6L427.1,624.6L425.4,624.6L423.7,624.6L422,624.6L420.3,624.6L418.5,624.6L416.8,624.6L415.1,624.6L413.4,624.6L411.7,624.6L410,624.6L408.3,624.6L407.5,624.6L407,644.6L406.8,664.5L406.5,672L406.2,684.5L405.3,704.4L406.1,724.4L406.5,742.5L406.6,744.4L407.1,764.3L407.6,784.3L408.3,797.8L408.8,804.2zM425.4,709.2L425.1,704.4L425.4,703L425.5,704.4zM447.6,824.2L447.7,824.2L447.8,824.2L447.7,823.8zM429.9,764.3L430.5,766.7L431,764.3L430.5,744.9zM429.7,624.6L430.5,631.6L431.5,624.6L430.5,624.6z"/>
<path fill="#00ffff" d="M421.3,804.2L422,820.2L423.7,821.8L425.4,809.9L427.1,806.3L428.3,824.2L428.8,824.2L430.5,824.2L432.2,824.2L434,824.2L435.7,824.2L436.6,824.2L437.4,811.4L438,824.2L439.1,824.2L440.8,824.2L442.5,824.2L444.2,824.2L446,824.2L447.6,824.2L447.7,823.8L447.8,824.2L449.4,824.2L451.1,824.2L452.8,824.2L454.5,824.2L455.9,824.2L456.2,819.8L456.5,824.2L458,824.2L459.7,824.2L461.4,824.2L463.1,824.2L464.2,824.2L463.1,808.2L461.4,810L460.9,804.2L459.7,784.3L461.4,767.4L463.1,770.3L464.8,767.3L466.4,784.3L466.5,789.3L466.6,784.3L467.4,764.3L466.5,753.8L464.8,760.6L463.3,744.4L463.1,742L461.4,741.3L459.7,733.3L458.3,724.4L458,719.3L456.2,715.3L454.5,723.9L454.3,724.4L453.2,744.4L452.8,747.4L451.2,764.3L451.3,784.3L451.1,792L449.8,804.2L449.4,805L447.9,804.2L447.7,803.8L446,787.9L445.8,784.3L446,777L447.7,766.3L448,764.3L448.5,744.4L447.7,737.8L446.1,724.4L447.2,704.4L446,689.5L445.1,684.5L444.2,680.4L443.8,684.5L442.5,696.6L441.8,704.4L440.8,713.5L440.2,704.4L439.1,692.6L438.1,684.5L437.4,678.9L436.5,664.5L437.4,651L438.4,644.6L439.1,642.8L440,644.6L440.8,652.1L442.5,653.2L443.1,644.6L442.5,637.7L440.8,631.8L440.7,624.6L439.1,624.6L437.4,624.6L435.7,624.6L434,624.6L432.2,624.6L431.5,624.6L430.5,631.6L429.7,624.6L428.8,624.6L427.7,624.6L427.1,631.2L425.9,644.6L426,664.5L427.1,678.7L428,684.5L428.8,696.5L429.1,704.4L428.9,724.4L428.8,726.6L427.1,742.9L426.9,744.4L425.7,764.3L425.4,769L425.1,764.3L424.7,744.4L424.7,724.4L423.7,714.7L423.2,724.4L422,743.4L420.5,724.4L420.3,720.2L418.5,719.4L418.2,724.4L418,744.4L418,764.3L418.1,784.3L418.5,788.5L420.3,785.8zM430.5,766.7L429.9,764.3L430.5,744.9L431,764.3zM458,784.7L457.9,784.3L457.8,764.3L458,761.3L458.1,764.3L458.9,784.3zM465.4,824.2L466.5,824.2L468.2,824.2L468.5,824.2L468.2,823.1L466.5,807zM470.7,824.2L471.7,824.2L472.4,824.2L471.7,815zM476,804.2L476.8,810.2L477.2,824.2L478.5,824.2L479.6,824.2L479.1,804.2L478.5,792.1L476.8,789.2zM484.9,824.2L485.4,824.2L487.1,824.2L487.4,824.2L487.1,818.1L485.4,819.1zM493.7,824.2L493.9,824.2L494.5,824.2L493.9,820.4zM500.5,824.2L500.8,824.2L502.5,824.2L504.1,824.2L502.5,807.7L500.8,818.1zM504.8,824.2L505.9,824.2L507.6,824.2L509.4,824.2L510.5,824.2L509.4,812.3L507.6,816.4L506.7,804.2L505.9,796.3L504.8,804.2zM584.9,824.2L586.5,824.2L588.2,824.2L589.9,824.2L591.6,824.2L592.4,824.2L591.6,820.7L589.9,817.9L588.7,804.2L588.2,800.1L588,804.2L586.5,819zM578.7,784.3L579.6,791.3L580.9,784.3L581.3,770.2L581.5,764.3L581.3,751.4L579.6,760.5L579.4,764.3zM589.7,784.3L589.9,788.4L590,784.3L589.9,781.1zM471.5,764.3L471.7,780.9L471.8,764.3L471.7,745.8zM500.8,764.3L500.8,764.6L500.8,764.3zM471.3,724.4L471.7,743.3L471.9,724.4L471.7,721.2zM598.4,724.4L598.5,726.8L598.7,724.4L598.5,720.3zM425.1,704.4L425.4,709.2L425.5,704.4L425.4,703zM449,704.4L449.4,705.4L449.4,704.4L449.4,703.1zM448.7,624.6L449.4,635.8L451.1,636.6L452.5,624.6L451.1,624.6L449.4,624.6z"/>
<path fill="#00ff80" d="M436.6,824.2L437.4,824.2L438,824.2L437.4,811.4zM447.9,804.2L449.4,805L449.8,804.2L451.1,792L451.3,784.3L451.2,764.3L452.8,747.4L453.2,744.4L454.3,724.4L454.5,723.9L456.2,715.3L458,719.3L458.3,724.4L459.7,733.3L461.4,741.3L463.1,742L463.3,744.4L464.8,760.6L466.5,753.8L467.4,764.3L466.6,784.3L466.5,789.3L466.4,784.3L464.8,767.3L463.1,770.3L461.4,767.4L459.7,784.3L460.9,804.2L461.4,810L463.1,808.2L464.2,824.2L464.8,824.2L465.4,824.2L466.5,807L468.2,823.1L468.5,824.2L469.9,824.2L470.7,824.2L471.7,815L472.4,824.2L473.4,824.2L475.1,824.2L476.8,824.2L477.2,824.2L476.8,810.2L476,804.2L476.8,789.2L478.5,792.1L479.1,804.2L479.6,824.2L480.2,824.2L481.9,824.2L483.7,824.2L484.9,824.2L485.4,819.1L487.1,818.1L487.4,824.2L488.8,824.2L490.5,824.2L492.2,824.2L493.7,824.2L493.9,820.4L494.5,824.2L495.6,824.2L497.4,824.2L499.1,824.2L500.5,824.2L500.8,818.1L502.5,807.7L504.1,824.2L504.2,824.2L504.8,824.2L504.8,804.2L505.9,796.3L506.7,804.2L507.6,816.4L509.4,812.3L510.5,824.2L511.1,824.2L512.8,824.2L514.5,824.2L515.4,824.2L514.5,810.9L513.9,804.2L513.2,784.3L512.9,764.3L512.8,762.8L512.7,764.3L511.1,778.1L509.4,772.1L508.8,764.3L509.2,744.4L509.3,724.4L508,704.4L508.8,684.5L507.9,664.5L507.6,661.4L505.9,661L504.2,659.9L503,664.5L503.3,684.5L502.5,690.5L501.6,704.4L501.4,724.4L500.8,733.1L499.7,744.4L499.1,748.9L497.4,757.8L495.6,746.2L495.4,744.4L494.8,724.4L495.6,723.5L497.4,706.7L497.4,704.4L497.4,698.4L497.2,684.5L495.6,665.2L495.5,664.5L494.6,644.6L493.9,638.2L492.5,644.6L493.3,664.5L492.9,684.5L492.2,703.4L490.5,692.8L488.8,695.6L487.9,704.4L487.1,709.6L486.4,704.4L485.4,693.3L484.8,684.5L483.7,671L482.8,664.5L482.2,644.6L482.6,624.6L481.9,624.6L480.2,624.6L478.5,624.6L477,624.6L478.5,631.7L480.2,642.9L480.6,644.6L480.8,664.5L480.3,684.5L480.2,684.9L478.5,694.1L476.8,703.1L475.1,696.5L474.2,684.5L475.1,674.1L476.8,670L477,664.5L476.8,662L475.1,655.1L474.3,644.6L474.1,624.6L473.4,624.6L471.7,624.6L470.4,624.6L470.1,644.6L469.9,648.5L468.2,654.5L466.5,644.6L466.5,644.5L464.8,628.2L464.6,624.6L463.1,624.6L461.4,624.6L459.7,624.6L458,624.6L456.2,624.6L454.5,624.6L452.8,624.6L452.5,624.6L451.1,636.6L449.4,635.8L448.7,624.6L447.7,624.6L446,624.6L444.2,624.6L442.5,624.6L440.8,624.6L440.7,624.6L440.8,631.8L442.5,637.7L443.1,644.6L442.5,653.2L440.8,652.1L440,644.6L439.1,642.8L438.4,644.6L437.4,651L436.5,664.5L437.4,678.9L438.1,684.5L439.1,692.6L440.2,704.4L440.8,713.5L441.8,704.4L442.5,696.6L443.8,684.5L444.2,680.4L445.1,684.5L446,689.5L447.2,704.4L446.1,724.4L447.7,737.8L448.5,744.4L448,764.3L447.7,766.3L446,777L445.8,784.3L446,787.9L447.7,803.8zM449.4,705.4L449,704.4L449.4,703.1L449.4,704.4zM471.7,780.9L471.5,764.3L471.7,745.8L471.8,764.3zM475.1,767.4L474.5,764.3L475.1,755.6L475.6,764.3zM476.8,750L476,744.4L476.8,728.8L478,744.4zM481.9,750.7L481.3,744.4L481.9,731.1L483.7,738.5L483.9,744.4L483.7,749.7zM504.2,769.6L503.7,764.3L504.2,753.9L504.9,764.3zM471.7,743.3L471.3,724.4L471.7,721.2L471.9,724.4zM504.2,733.7L503.7,724.4L504.2,707.8L504.9,724.4zM455.9,824.2L456.2,824.2L456.5,824.2L456.2,819.8zM519,824.2L519.6,824.2L521.4,824.2L522.2,824.2L523.1,813.3L523.5,824.2L524.8,824.2L526.5,824.2L528.2,824.2L529.9,824.2L531.6,824.2L533.3,824.2L535.1,824.2L536.8,824.2L538.5,824.2L539.5,824.2L540.2,810L541.1,804.2L541.3,784.3L541.9,769.5L543,764.3L543.6,763L544.9,744.4L543.6,729.3L541.9,734.9L540.2,740.7L539.5,744.4L538.5,751.4L537.6,744.4L536.8,735.3L535.1,739.6L533.3,738.7L532.3,744.4L531.6,749.4L529.9,749.2L529.2,764.3L529.9,768L530.8,784.3L529.9,804.2L528.2,797.8L526.7,784.3L526.5,782.5L525.8,784.3L524.8,786.2L523.9,784.3L523.1,782.8L522.7,784.3L521.4,795.2L519.6,802.9L519.6,804.2zM535.1,817.7L534.5,804.2L535.1,786.7L535.6,804.2zM541.7,824.2L541.9,824.2L542,824.2L541.9,819.2zM545.7,824.2L547.1,824.2L548.8,824.2L550.5,824.2L552.2,824.2L553.9,824.2L555.6,824.2L557.3,824.2L559.1,824.2L560,824.2L560.7,804.2L560.8,802.5L560.9,804.2L561.3,824.2L562.5,824.2L564.2,824.2L565.4,824.2L565.9,820.5L566.2,824.2L567.6,824.2L569.3,824.2L571,824.2L572.8,824.2L573.7,824.2L574.5,822L574.6,824.2L576.2,824.2L577.9,824.2L577.9,823.5L578,824.2L579.6,824.2L581.3,824.2L583,824.2L584.8,824.2L584.9,824.2L586.5,819L588,804.2L588.2,800.1L588.7,804.2L589.9,817.9L591.6,820.7L592.4,824.2L593.3,824.2L595,824.2L596.8,824.2L598.5,824.2L598.8,824.2L600.2,810.6L601.2,824.2L601.9,824.2L603.6,824.2L605.3,824.2L607,824.2L607.8,824.2L608.1,804.2L607.3,784.3L607,777.8L605.3,766.5L605.3,764.3L604.8,744.4L603.8,724.4L603.6,723.7L601.9,721.7L601.1,704.4L600.2,688.2L599.8,684.5L598.5,670.4L596.9,684.5L596.8,686.4L596.2,704.4L595.7,724.4L595.3,744.4L595,747.5L593.3,744.5L593.3,744.4L591.6,738.2L589.9,737.2L588.2,742.4L588.1,744.4L586.5,753L585.2,744.4L584.8,736.9L584.1,724.4L583,715.5L581.3,723.1L581.1,724.4L579.6,733.8L577.9,740.1L576.2,736.8L574.5,742.8L573.7,744.4L573.4,764.3L574.5,769.4L575,784.3L574.5,791.9L572.8,784.3L572.8,782L571,767L570.8,764.3L569.7,744.4L569.3,733.6L567.6,736.2L565.9,742.4L565.4,744.4L564.2,762.2L563.9,764.3L562.5,766.4L560.8,775.5L559.9,784.3L559.1,791.4L557.3,803.1L556.2,784.3L555.6,772.3L553.9,773.6L552.8,784.3L552.2,789.7L550.9,804.2L550.5,808.3L549.9,804.2L548.8,794.4L547.6,784.3L547.1,777.2L546.7,784.3L546.3,804.2zM579.6,791.3L578.7,784.3L579.4,764.3L579.6,760.5L581.3,751.4L581.5,764.3L581.3,770.2L580.9,784.3zM589.9,788.4L589.7,784.3L589.9,781.1L590,784.3zM598.5,726.8L598.4,724.4L598.5,720.3L598.7,724.4zM610.4,824.2L610.5,824.2L610.6,824.2L610.5,820.1zM457.9,784.3L458,784.7L458.9,784.3L458.1,764.3L458,761.3L457.8,764.3zM613.5,784.3L613.9,785.6L615.6,793.9L615.6,784.3L615.6,764.3L615.6,744.4L615.6,738.8L615,744.4L613.9,761.8L613.7,764.3zM517.1,764.3L517.9,773L519.4,764.3L519.6,761.6L520.1,744.4L519.6,739.4L517.9,727.4L516.2,731.4L514.5,731.2L513.8,744.4L514.5,750.9L516.2,750.4zM608.7,764.3L608.7,764.7L610.5,780.6L611,764.3L610.7,744.4L610.5,731.3L608.7,728.2L607,744.4zM551.9,744.4L552.2,752L552.4,744.4L552.2,740zM509.6,724.4L511.1,728.6L511.8,724.4L511.1,718.1zM511.9,704.4L512.8,717.1L513.3,704.4L513.2,684.5L512.8,678.9L512.3,684.5zM586.2,684.5L586.5,685.8L586.6,684.5L586.5,680.8zM516.7,664.5L517.9,677.1L519.6,669L520.2,664.5L521.1,644.6L519.6,627.9L517.9,633.7L517.2,644.6zM560.7,664.5L560.8,666.9L562.5,677.3L564.2,664.8L564.2,664.5L564.2,664.2L562.5,660.5L560.8,663.6zM581.1,664.5L581.3,668.1L581.6,664.5L581.3,654.1zM540,644.6L540.2,648L540.9,644.6L540.8,624.6L540.2,624.6L539.8,624.6zM580.5,624.6L581.3,634.7L581.5,624.6L581.3,624.6z"/>
<path fill="#00f000" d="M513.9,804.2L514.5,810.9L515.4,824.2L516.2,824.2L517.9,824.2L519,824.2L519.6,804.2L519.6,802.9L521.4,795.2L522.7,784.3L523.1,782.8L523.9,784.3L524.8,786.2L525.8,784.3L526.5,782.5L526.7,784.3L528.2,797.8L529.9,804.2L530.8,784.3L529.9,768L529.2,764.3L529.9,749.2L531.6,749.4L532.3,744.4L533.3,738.7L535.1,739.6L536.8,735.3L537.6,744.4L538.5,751.4L539.5,744.4L540.2,740.7L541.9,734.9L543.6,729.3L544.9,744.4L543.6,763L543,764.3L541.9,769.5L541.3,784.3L541.1,804.2L540.2,810L539.5,824.2L540.2,824.2L541.7,824.2L541.9,819.2L542,824.2L543.6,824.2L543.6,823.2L543.7,824.2L545.3,824.2L545.7,824.2L546.3,804.2L546.7,784.3L547.1,777.2L547.6,784.3L548.8,794.4L549.9,804.2L550.5,808.3L550.9,804.2L552.2,789.7L552.8,784.3L553.9,773.6L555.6,772.3L556.2,784.3L557.3,803.1L559.1,791.4L559.9,784.3L560.8,775.5L562.5,766.4L563.9,764.3L564.2,762.2L565.4,744.4L565.9,742.4L567.6,736.2L569.3,733.6L569.7,744.4L570.8,764.3L571,767L572.8,782L572.8,784.3L574.5,791.9L575,784.3L574.5,769.4L573.4,764.3L573.7,744.4L574.5,742.8L576.2,736.8L577.9,740.1L579.6,733.8L581.1,724.4L581.3,723.1L583,715.5L584.1,724.4L584.8,736.9L585.2,744.4L586.5,753L588.1,744.4L588.2,742.4L589.9,737.2L591.6,738.2L593.3,744.4L593.3,744.5L595,747.5L595.3,744.4L595.7,724.4L596.2,704.4L596.8,686.4L596.9,684.5L598.5,670.4L599.8,684.5L600.2,688.2L601.1,704.4L601.9,721.7L603.6,723.7L603.8,724.4L604.8,744.4L605.3,764.3L605.3,766.5L607,777.8L607.3,784.3L608.1,804.2L607.8,824.2L608.7,824.2L610.4,824.2L610.5,820.1L610.6,824.2L612.2,824.2L613.9,824.2L615.6,824.2L615.6,804.2L615.6,793.9L613.9,785.6L613.5,784.3L613.7,764.3L613.9,761.8L615,744.4L615.6,738.8L615.6,724.4L615.6,704.4L615.6,684.5L615.6,664.5L615.6,647.2L613.9,659.1L612.2,656.1L610.5,655.8L608.9,644.6L608.7,643.1L607,631.7L605.3,633L604,644.6L603.6,649.5L602,664.5L601.9,665.6L601.6,664.5L600.2,644.6L600.4,624.6L600.2,624.6L599.3,624.6L600,644.6L598.5,646.6L596.8,655L595,663.4L593.3,657.2L591.8,664.5L593.3,678.6L594.4,684.5L593.3,700.1L591.6,699.9L589.9,704.1L589.5,684.5L589.9,676.1L591.4,664.5L590.9,644.6L590.4,624.6L589.9,624.6L588.2,624.6L586.7,624.6L586.5,635.6L586.2,644.6L584.8,651.2L583.6,644.6L583.6,624.6L583,624.6L581.5,624.6L581.3,634.7L580.5,624.6L579.6,624.6L578,624.6L578.7,644.6L578.8,664.5L579.6,671.9L580.6,684.5L580.5,704.4L579.6,708.1L579.1,704.4L577.9,695L576.2,699.8L575.6,704.4L574.5,719.2L573.7,724.4L572.8,726.3L571,725.6L571,724.4L570.4,704.4L571,698.6L572.1,684.5L572.8,670.8L573.6,664.5L574.5,656.7L574.9,644.6L574.5,636.2L573.2,644.6L572.8,651.9L571,662L569.3,663.1L569.2,664.5L568.2,684.5L568.2,704.4L567.6,708.7L565.9,714.4L564.7,704.4L564.6,684.5L565.6,664.5L565,644.6L564.2,629L562.5,637.5L560.8,635.2L559.8,624.6L559.1,624.6L558,624.6L557.8,644.6L557.3,664L557.1,664.5L557.3,684.5L557.3,684.8L558.9,704.4L559.1,723.2L559.1,724.4L559.1,724.5L557.6,744.4L557.3,747.3L557.1,744.4L555.7,724.4L556,704.4L555.6,698.2L554.1,684.5L554.7,664.5L553.9,663.7L553.7,664.5L553.5,684.5L552.2,691.2L551.3,704.4L550.5,710.5L549.4,724.4L548.8,732.2L547.1,732.9L545.9,724.4L545.3,715.3L544.9,704.4L544.5,684.5L544.8,664.5L545.3,647.5L546.2,644.6L547.1,642.9L547.8,624.6L547.1,624.6L545.3,624.6L545.1,624.6L543.6,638.7L542.6,624.6L541.9,624.6L540.8,624.6L540.9,644.6L540.2,648L540,644.6L539.8,624.6L538.9,624.6L538.5,641.5L538.3,644.6L536.8,661.2L536,664.5L535.1,668.9L534.3,684.5L535.1,703.3L535.1,704.4L535.1,705.9L533.3,713.8L531.6,716.5L529.9,709.6L528.2,708.2L526.5,724.4L526.5,724.9L524.8,739.5L523.9,724.4L523.1,707L522.5,724.4L521.4,733.6L520.4,724.4L520.5,704.4L521.4,697.9L523.1,703.8L524.8,695.2L525.6,684.5L526.5,669.6L527.1,664.5L528.2,656.5L529.9,653.5L531.6,660.9L533.3,650.8L533.5,644.6L533.8,624.6L533.3,624.6L531.6,624.6L529.9,624.6L529.6,624.6L528.2,637.7L526.5,632.7L525.8,624.6L524.8,624.6L523.1,624.6L521.4,624.6L519.6,624.6L517.9,624.6L516.2,624.6L515.7,624.6L515.1,644.6L514.7,664.5L514.5,669.6L514.2,664.5L513.6,644.6L513.5,624.6L512.8,624.6L512.3,624.6L512.4,644.6L511.5,664.5L511.1,670.2L510.1,664.5L509.4,661.6L507.7,644.6L507.6,642.9L505.9,629.6L504.2,635L503,624.6L502.5,624.6L500.8,624.6L499.1,624.6L498.8,624.6L497.7,644.6L497.4,646.5L497.1,644.6L495.6,634.4L494.6,624.6L493.9,624.6L492.2,624.6L490.5,624.6L488.8,624.6L487.1,624.6L485.4,624.6L483.7,624.6L482.6,624.6L482.2,644.6L482.8,664.5L483.7,671L484.8,684.5L485.4,693.3L486.4,704.4L487.1,709.6L487.9,704.4L488.8,695.6L490.5,692.8L492.2,703.4L492.9,684.5L493.3,664.5L492.5,644.6L493.9,638.2L494.6,644.6L495.5,664.5L495.6,665.2L497.2,684.5L497.4,698.4L497.4,704.4L497.4,706.7L495.6,723.5L494.8,724.4L495.4,744.4L495.6,746.2L497.4,757.8L499.1,748.9L499.7,744.4L500.8,733.1L501.4,724.4L501.6,704.4L502.5,690.5L503.3,684.5L503,664.5L504.2,659.9L505.9,661L507.6,661.4L507.9,664.5L508.8,684.5L508,704.4L509.3,724.4L509.2,744.4L508.8,764.3L509.4,772.1L511.1,778.1L512.7,764.3L512.8,762.8L512.9,764.3L513.2,784.3zM516.2,788.7L516.1,784.3L516.2,783.7L516.3,784.3zM517.9,773L517.1,764.3L516.2,750.4L514.5,750.9L513.8,744.4L514.5,731.2L516.2,731.4L517.9,727.4L519.6,739.4L520.1,744.4L519.6,761.6L519.4,764.3zM538.5,706.9L538.3,704.4L538.5,688.8L540.2,686.7L541,704.4L540.2,718.1zM552.2,752L551.9,744.4L552.2,740L552.4,744.4zM560.8,666.9L560.7,664.5L560.8,663.6L562.5,660.5L564.2,664.2L564.2,664.5L564.2,664.8L562.5,677.3zM581.3,668.1L581.1,664.5L581.3,654.1L581.6,664.5zM586.5,685.8L586.2,684.5L586.5,680.8L586.6,684.5zM607,686.3L606.9,684.5L607,682.4L607.2,684.5zM608.7,764.7L608.7,764.3L607,744.4L608.7,728.2L610.5,731.3L610.7,744.4L611,764.3L610.5,780.6zM488.8,649.7L488.4,644.6L488.8,639.3L489.4,644.6zM511.1,728.6L509.6,724.4L511.1,718.1L511.8,724.4zM512.8,717.1L511.9,704.4L512.3,684.5L512.8,678.9L513.2,684.5L513.3,704.4zM517.9,677.1L516.7,664.5L517.2,644.6L517.9,633.7L519.6,627.9L521.1,644.6L520.2,664.5L519.6,669zM522.2,824.2L523.1,824.2L523.5,824.2L523.1,813.3zM534.5,804.2L535.1,817.7L535.6,804.2L535.1,786.7zM560,824.2L560.8,824.2L561.3,824.2L560.9,804.2L560.8,802.5L560.7,804.2zM565.4,824.2L565.9,824.2L566.2,824.2L565.9,820.5zM573.7,824.2L574.5,824.2L574.6,824.2L574.5,822zM577.9,824.2L578,824.2L577.9,823.5zM598.8,824.2L600.2,824.2L601.2,824.2L600.2,810.6zM474.5,764.3L475.1,767.4L475.6,764.3L475.1,755.6zM503.7,764.3L504.2,769.6L504.9,764.3L504.2,753.9zM476,744.4L476.8,750L478,744.4L476.8,728.8zM481.3,744.4L481.9,750.7L483.7,749.7L483.9,744.4L483.7,738.5L481.9,731.1zM503.7,724.4L504.2,733.7L504.9,724.4L504.2,707.8zM474.2,684.5L475.1,696.5L476.8,703.1L478.5,694.1L480.2,684.9L480.3,684.5L480.8,664.5L480.6,644.6L480.2,642.9L478.5,631.7L477,624.6L476.8,624.6L475.1,624.6L474.1,624.6L474.3,644.6L475.1,655.1L476.8,662L477,664.5L476.8,670L475.1,674.1zM466.5,644.6L468.2,654.5L469.9,648.5L470.1,644.6L470.4,624.6L469.9,624.6L468.2,624.6L466.5,624.6L464.8,624.6L464.6,624.6L464.8,628.2L466.5,644.5zM610.2,624.6L610.5,627.8L610.8,624.6L610.5,624.6z"/>
<path fill="#ffff00" d="M543.6,824.2L543.7,824.2L543.6,823.2zM516.1,784.3L516.2,788.7L516.3,784.3L516.2,783.7zM557.1,744.4L557.3,747.3L557.6,744.4L559.1,724.5L559.1,724.4L559.1,723.2L558.9,704.4L557.3,684.8L557.3,684.5L557.1,664.5L557.3,664L557.8,644.6L558,624.6L557.3,624.6L556.4,624.6L555.7,644.6L555.6,645.5L554.2,644.6L553.9,644.3L553.9,644.6L552.2,653.2L550.5,653.7L549.4,644.6L549.3,624.6L548.8,624.6L547.8,624.6L547.1,642.9L546.2,644.6L545.3,647.5L544.8,664.5L544.5,684.5L544.9,704.4L545.3,715.3L545.9,724.4L547.1,732.9L548.8,732.2L549.4,724.4L550.5,710.5L551.3,704.4L552.2,691.2L553.5,684.5L553.7,664.5L553.9,663.7L554.7,664.5L554.1,684.5L555.6,698.2L556,704.4L555.7,724.4zM520.4,724.4L521.4,733.6L522.5,724.4L523.1,707L523.9,724.4L524.8,739.5L526.5,724.9L526.5,724.4L528.2,708.2L529.9,709.6L531.6,716.5L533.3,713.8L535.1,705.9L535.1,704.4L535.1,703.3L534.3,684.5L535.1,668.9L536,664.5L536.8,661.2L538.3,644.6L538.5,641.5L538.9,624.6L538.5,624.6L536.8,624.6L536.1,624.6L535.1,637.5L535,624.6L533.8,624.6L533.5,644.6L533.3,650.8L531.6,660.9L529.9,653.5L528.2,656.5L527.1,664.5L526.5,669.6L525.6,684.5L524.8,695.2L523.1,703.8L521.4,697.9L520.5,704.4zM571,724.4L571,725.6L572.8,726.3L573.7,724.4L574.5,719.2L575.6,704.4L576.2,699.8L577.9,695L579.1,704.4L579.6,708.1L580.5,704.4L580.6,684.5L579.6,671.9L578.8,664.5L578.7,644.6L578,624.6L577.9,624.6L576.2,624.6L574.5,624.6L572.8,624.6L571.6,624.6L571,644.3L569.3,635.6L567.6,632L565.9,625.2L565.9,624.6L564.2,624.6L562.5,624.6L560.8,624.6L559.8,624.6L560.8,635.2L562.5,637.5L564.2,629L565,644.6L565.6,664.5L564.6,684.5L564.7,704.4L565.9,714.4L567.6,708.7L568.2,704.4L568.2,684.5L569.2,664.5L569.3,663.1L571,662L572.8,651.9L573.2,644.6L574.5,636.2L574.9,644.6L574.5,656.7L573.6,664.5L572.8,670.8L572.1,684.5L571,698.6L570.4,704.4zM576.2,666L576.1,664.5L576.2,661.9L576.3,664.5zM538.3,704.4L538.5,706.9L540.2,718.1L541,704.4L540.2,686.7L538.5,688.8zM589.5,684.5L589.9,704.1L591.6,699.9L593.3,700.1L594.4,684.5L593.3,678.6L591.8,664.5L593.3,657.2L595,663.4L596.8,655L598.5,646.6L600,644.6L599.3,624.6L598.5,624.6L596.8,624.6L596.2,624.6L595.5,644.6L595,647L594.4,644.6L593.3,641.3L591.8,624.6L591.6,624.6L590.4,624.6L590.9,644.6L591.4,664.5L589.9,676.1zM606.9,684.5L607,686.3L607.2,684.5L607,682.4zM510.1,664.5L511.1,670.2L511.5,664.5L512.4,644.6L512.3,624.6L511.1,624.6L509.4,624.6L507.6,624.6L505.9,624.6L504.2,624.6L503,624.6L504.2,635L505.9,629.6L507.6,642.9L507.7,644.6L509.4,661.6zM514.2,664.5L514.5,669.6L514.7,664.5L515.1,644.6L515.7,624.6L514.5,624.6L513.5,624.6L513.6,644.6zM601.6,664.5L601.9,665.6L602,664.5L603.6,649.5L604,644.6L605.3,633L607,631.7L608.7,643.1L608.9,644.6L610.5,655.8L612.2,656.1L613.9,659.1L615.6,647.2L615.6,644.6L615.6,626L615.3,624.6L613.9,624.6L612.2,624.6L610.8,624.6L610.5,627.8L610.2,624.6L608.7,624.6L607,624.6L605.3,624.6L603.6,624.6L601.9,624.6L600.4,624.6L600.2,644.6zM488.4,644.6L488.8,649.7L489.4,644.6L488.8,639.3zM497.1,644.6L497.4,646.5L497.7,644.6L498.8,624.6L497.4,624.6L495.6,624.6L494.6,624.6L495.6,634.4zM583.6,644.6L584.8,651.2L586.2,644.6L586.5,635.6L586.7,624.6L586.5,624.6L584.8,624.6L583.6,624.6zM525.8,624.6L526.5,632.7L528.2,637.7L529.6,624.6L528.2,624.6L526.5,624.6zM542.6,624.6L543.6,638.7L545.1,624.6L543.6,624.6z"/>
<path fill="#ff8000" d="M576.1,664.5L576.2,666L576.3,664.5L576.2,661.9zM549.4,644.6L550.5,653.7L552.2,653.2L553.9,644.6L553.9,644.3L554.2,644.6L555.6,645.5L555.7,644.6L556.4,624.6L555.6,624.6L553.9,624.6L552.2,624.6L550.5,624.6L549.3,624.6zM594.4,644.6L595,647L595.5,644.6L596.2,624.6L595,624.6L593.9,624.6L593.3,627.4L593.1,624.6L591.8,624.6L593.3,641.3zM535,624.6L535.1,637.5L536.1,624.6L535.1,624.6zM565.9,624.6L565.9,625.2L567.6,632L569.3,635.6L571,644.3L571.6,624.6L571,624.6L569.3,624.6L567.6,624.6L565.9,624.6zM615.3,624.6L615.6,626L615.6,624.6z"/>
<path fill="#ff0000" d="M593.1,624.6L593.3,627.4L593.9,624.6L593.3,624.6z"/>
</g>
<rect x="375.7" y="624.6" width="239.9" height="199.6" fill="none" stroke="#000" stroke-width="1"/>
<path d="M392.8,824.2v4.2M427.1,824.2v4.2M461.4,824.2v4.2M495.6,824.2v4.2M529.9,824.2v4.2M564.2,824.2v4.2M598.5,824.2v4.2M375.7,824.2v2.3M410.0,824.2v2.3M444.2,824.2v2.3M478.5,824.2v2.3M512.8,824.2v2.3M547.1,824.2v2.3M581.3,824.2v2.3M615.6,824.2v2.3M375.7,824.2h-4.2M375.7,784.3h-4.2M375.7,744.4h-4.2M375.7,704.4h-4.2M375.7,664.5h-4.2M375.7,624.6h-4.2M375.7,804.2h-2.3M375.7,764.3h-2.3M375.7,724.4h-2.3M375.7,684.5h-2.3M375.7,644.6h-2.3" stroke="#000" stroke-width=".9" fill="none"/>
<g style="font-family:'Liberation Serif',serif;font-weight:bold;font-size:9.00px" text-anchor="middle">
<text transform="translate(392.8,838.2) scale(1.100,1)">20000</text>
<text transform="translate(427.1,838.2) scale(1.100,1)">40000</text>
<text transform="translate(461.4,838.2) scale(1.100,1)">60000</text>
<text transform="translate(495.6,838.2) scale(1.100,1)">80000</text>
<text transform="translate(529.9,838.2) scale(1.100,1)">100000</text>
<text transform="translate(564.2,838.2) scale(1.100,1)">120000</text>
<text transform="translate(598.5,838.2) scale(1.100,1)">140000</text>
</g>
<g style="font-family:'Liberation Serif',serif;font-weight:bold;font-size:9.00px" text-anchor="end">
<text transform="translate(368.1,827.3) scale(1.100,1)">0</text>
<text transform="translate(368.1,787.4) scale(1.100,1)">5</text>
<text transform="translate(368.1,747.5) scale(1.100,1)">10</text>
<text transform="translate(368.1,707.5) scale(1.100,1)">15</text>
<text transform="translate(368.1,667.6) scale(1.100,1)">20</text>
<text transform="translate(368.1,627.7) scale(1.100,1)">25</text>
</g>
<text transform="translate(495.6,850.4) scale(1.100,1)" text-anchor="middle" style="font-family:'Liberation Serif',serif;font-weight:bold;font-size:11.18px">Steps</text>
<text transform="translate(355.0,720.1) scale(1.100,1) rotate(-90)" text-anchor="middle" style="font-family:'Liberation Serif',serif;font-weight:bold;font-size:11.70px">Cutting angle(°)</text>
<rect x="631.0" y="624.80" width="23.0" height="14.27" fill="#000000"/>
<rect x="631.0" y="638.77" width="23.0" height="14.27" fill="#0000ff"/>
<rect x="631.0" y="652.73" width="23.0" height="14.27" fill="#0080ff"/>
<rect x="631.0" y="666.70" width="23.0" height="14.27" fill="#00ffff"/>
<rect x="631.0" y="680.67" width="23.0" height="14.27" fill="#00ff80"/>
<rect x="631.0" y="694.63" width="23.0" height="14.27" fill="#00f000"/>
<rect x="631.0" y="708.60" width="23.0" height="14.27" fill="#ffff00"/>
<rect x="631.0" y="722.57" width="23.0" height="14.27" fill="#ff8000"/>
<rect x="631.0" y="736.53" width="23.0" height="13.97" fill="#ff0000"/>
<g style="font-family:'Liberation Serif',serif;font-weight:bold;font-size:8.2px">
<text x="657.5" y="641.6">-4.000</text>
<text x="657.5" y="655.5">13.25</text>
<text x="657.5" y="669.5">30.50</text>
<text x="657.5" y="683.5">47.75</text>
<text x="657.5" y="697.4">65.00</text>
<text x="657.5" y="711.4">82.25</text>
<text x="657.5" y="725.4">99.50</text>
<text x="657.5" y="739.3">116.8</text>
<text x="657.5" y="753.3">134.0</text>
</g>
<text x="340.4" y="876.5" text-anchor="middle" style="font-family:'Liberation Serif',serif;font-size:17.4px">c) cutting force in z direction</text>
<path d="M159,1110L263.8,1056.7M263.8,1056.7L270.3,896.9M138.2,1102.5L244.2,1051.4M244.2,1051.4L249.4,894.4M118.2,1095.4L225.3,1046.3M225.3,1046.3L229.3,892.1M99,1088.5L207.2,1041.4M207.2,1041.4L210.1,889.8M80.7,1082L189.6,1036.6M189.6,1036.6L191.5,887.6M63.1,1075.7L172.7,1032M172.7,1032L173.6,885.5M46.2,1069.7L156.4,1027.6M156.4,1027.6L156.4,883.5M193.7,1101.4L62.9,1057.4M62.9,1057.4L57.2,896.9M215.9,1089.7L86.3,1048.7M86.3,1048.7L82.1,893M236.5,1078.9L108.2,1040.5M108.2,1040.5L105.5,889.3M255.8,1068.9L128.9,1032.7M128.9,1032.7L127.4,885.8M38,1066.7L148.4,1025.5M148.4,1025.5L273.8,1059.4M37.2,1050.2L148.4,1011.1M148.4,1011.1L274.5,1043.3M36.5,1033.5L148.3,996.6M148.3,996.6L275.3,1027M35.7,1016.6L148.3,981.9M148.3,981.9L276,1010.5M34.9,999.5L148.2,967.1M148.2,967.1L276.7,993.8M34.2,982.1L148.2,952.1M148.2,952.1L277.5,976.9M33.4,964.5L148.1,936.9M148.1,936.9L278.3,959.8M32.6,946.7L148.1,921.6M148.1,921.6L279,942.5M31.7,928.7L148,906.1M148,906.1L279.8,924.9M30.9,910.4L148,890.4M148,890.4L280.6,907.1" stroke="#e6e6e6" stroke-width=".6" fill="none"/>
<path d="M148.4,1025.5L148,882.5M273.8,1059.4L281,898.2M38,1066.7L148.4,1025.5M273.8,1059.4L148.4,1025.5" stroke="#555" stroke-width=".7" fill="none"/>
<path d="M30.5,901.2L148,882.5M148,882.5L281,898.2" stroke="#444" stroke-width=".7" fill="none"/>
<g fill="currentColor" stroke="currentColor" stroke-width=".6" stroke-linejoin="round">
<path color="#a00" d="M150.5,899.1l-.8-2.6-5,.6 .8,4.5z"/>
<path color="#b00" d="M151.3,901.7l-.8-2.6-5,2.5 .9,4.5zM198.5,911.3l-1.8-4.5-1.8-2.4-.9,2.1-5,8.1 1-4.7 1.8-.1 1.8,6.9z"/>
<path color="#c00" d="M153,909l-1.7-7.3-4.9,4.4 1.6,1.6zM160.3,912.9l-.6-11-.5,6.3-5,4.6 .6-8.9 .5,9.9z"/>
<path color="#d00" d="M153.6,915.5l-.6-6.5-5-1.3 .6,5.9zM156.9,907.8l-.5-6.5-.6,9.1-5,5.5 .6-4.9 .6,6.5zM172.3,913.3l-.6-8.1-4.9,4.3 .5,8.1zM179.3,913.5l-.6-1.5-4.9,4.4 .5,3.9zM199,919.4l-.5-8.1-4.9,5.4 .5,7.6z"/>
<path color="#f00" d="M155.8,910.4l-.6,9.1-.5,9-.6-6.5-.5-6.5-5-1.9 .6,6 .6,5.9 .5-4.8 .5-4.8zM158.6,914.6l-.6,6.3-.5-6.6-.6-6.5-4.9,9.7 .5,6.4 .6,6.4 .6-8.7zM170.8,913.5l-.9,8.2-.9,6.9-.8,7-1.7-1.4-.9-9-.8-8.9-.9,7.6-.8,7.6-1.7,3.2-.6-10.9-.5-10.9-5,.9 .6,9.8 .6,9.7 1.7-3.2 .8-6.5 .9-6.5 .8,7.5 .9,7.3 1.7,.9 .8-6.1 .9-6.2 .9-5.5zM174.2,937.3l-.9-8.1-.5-7.9-.5-8-5,4.3 .6,8.1 .5,8 .9,7.4zM192.3,919.4l-.7,10.8-.8,10.7-1.7-5.7-.9-3.1-.8-3-.9-2.2-.8-2.3-.9,1.1-.9,1-.9,.6-.9,.6-.8-5.7-.9-5.7-.6-1.5-4.9,9.3 .5,3.9 .9,4.4 .8,4.4 1-3.4 .9-3.5 .9-3.1 .9-3.1 .8,5.5 .9,5.6 .8,3.9 .9,4 1.8,3.1 .6-8.8 .7-8.9zM200.8,941.7l-.9-6.2-.4-8-.5-8.1-4.9,4.9 .5,7.6 .5,7.6 .9,3.6zM206.6,941l-.4-12.4-.4-12.4-1,7.3-1.1,7.2-1.1,8.6-1,8.5-4.8-1.1 1-5.5 1-5.5 1-3.7 1-3.7 .5,8.5 .5,8.3zM211.5,943.8l-.5-7.2-.7,7.2-4.9,6.4 .7-4.7 .5,5.8z"/>
<path color="#f20" d="M175,945.3l-.8-8-4.9,3.8 .8,7.4zM201.6,947.8l-.8-6.1-4.8,1.4 .8,3.6zM207,953.2l-.4-12.2-4.8,4.1 .4,8.4z"/>
<path color="#e00" d="M179.8,915l-.5-1.5-5,6.8 .6,4z"/>
<path color="#f90" d="M209.5,951.1l-.7,7.1-1.8-5-4.8,.3 1.8,6.1 .7-4.7zM213.5,951.1l-1,7-.5-7.2-4.9,6.3 .6,5.8 1-6.9zM217.1,958.6l-.8-5.4-4.8,3.9 .9,3.8zM222.9,955.7l-1,.4-4.8,8.4 1-2.5zM227.6,960.2l-1.7-8.5-4.9,6.9 1.8,7.5z"/>
<path color="#f40" d="M212,950.9l-.5-7.1-4.9,7.5 .5,5.9zM216.3,953.2l-1.7-9.1-4.8,4.9 1.7,8.1z"/>
<path color="#fa0" d="M221.9,956.1l-1.9,1.8-2,6.1-.9-5.4-4.7,2.3 .9,3.9 1.8,1.7 2-2z"/>
<path color="#f60" d="M225.9,951.7l-2,3.7-1,.3-4.8,6.3 1-2.6 1.9-.8z"/>
<path color="#fc0" d="M229.3,967.9l-1.7-7.7-4.8,5.9 1.8,5.8z"/>
<path color="#ef0" d="M230.1,975.5l-.8-7.6-4.7,4 .7,7.3z"/>
<path color="#be0" d="M233,974.8l-2.2,8.4-.7-7.7-4.8,3.7 .8,7.2 2.1-6.3z"/>
<path color="#df0" d="M236,971.7l-1.2,6.6-1.8-3.5-4.8,5.3 1.9,3.7 1-3.6zM238,981.6l-.4-8.2-4.9,8 .5,4.9z"/>
<path color="#fe0" d="M237.6,973.4l-.5-8.3-1.1,6.6-4.9,8.5 1.1-3.7 .5,4.9z"/>
<path color="#9e0" d="M238.4,989.8l-.4-8.2-4.8,4.7 .6,4.9z"/>
<path color="#6e0" d="M240.2,992.5l-1.8-2.7-4.6,1.4 1.8,3.5z"/>
<path color="#4e0" d="M241,998.4l-.8-5.9-4.6,2.2 .9,4.6z"/>
<path color="#0e2" d="M241.8,1004.3l-.8-5.9-4.5,.9 .8,4.5z"/>
<path color="#0e7" d="M245.7,1005.9l-2,0-1.9-1.6-4.5-.5 1.9,4 1.8,3.3z"/>
<path color="#0ed" d="M251.4,1012.8l-1.8-4.7-2,.6-1.9-2.8-4.7,5.2 2,0 2-1.2 1.8,6z"/>
<path color="#0cf" d="M253.3,1016l-1.9-3.2-4.6,3.1 1.9,3.8z"/>
<path color="#07f" d="M254.1,1021.5l-.8-5.5-4.6,3.7 .8,5.3z"/>
<path color="#05f" d="M254.9,1027l-.8-5.5-4.6,3.5 .8,5.3z"/>
<path color="#00f" d="M256.7,1031.8l-1.8-4.8-4.6,3.3 1.9,4.3z"/>
<path color="#20f" d="M258.4,1039l-1.7-7.2-4.5,2.8 1.8,6.4z"/>
<path color="#70c" d="M260.1,1047.7l-1.7-8.7-4.4,2 1.6,8.9z"/>
<path color="#708" d="M261.9,1053.3l-1.8-5.6-4.5,2.2 1.8,5.6z"/>
<path color="#506" d="M273.9,1057.8l-2-.7-2-.6-2.1-.7-2-.6-2-.7-1.9-1.2-4.5,2.2 2,1.2 2,.7 2,.7 2,.7 2.1,.6 2,.7z"/>
<path color="#b00" d="M146.4,906.1l-.9-4.5-.8-4.5-.5,11.4-5.1,.6 .5-11.3 .9,6.4 .8,6.3zM191.8,909.8l-1.8,.1-5,5.4 1.8-2.4z"/>
<path color="#c00" d="M148,907.7l-1.6-1.6-5.1,4.4 1.7-4.1zM155.3,913.8l-.5-9.9-.6,8.9-5,4.6 .5-11.3 .6,8.6zM193.6,916.7l-1.8-6.9-5,3.1 1.8,9.2z"/>
<path color="#d00" d="M148.6,913.6l-.6-5.9-5-1.3 .6,5.3z"/>
<path color="#e00" d="M149.2,919.6l-.6-6-5-1.9 .5,5.3zM167.3,917.6l-.5-8.1-5,4.3 .5,8.2z"/>
<path color="#f00" d="M154.2,912.8l-.5,8.8-.6,8.7-.6-6.4-.5-6.4-.6-6.5-.6,4.9-.5,4.8-.5,4.8-.6-5.9-5.1-2.6 .6,5.3 .6-.5 .5-.4 .6-.5 .6,6.3 .6,6.3 .5,6.3 .6-11.2 .5-11.2zM165,920.5l-.9,6.2-.8,6.1-1.7-.9-.9-7.3-.8-7.5-.9,6.5-.8,6.5-1.7,3.2-.6-9.7-.6-9.8-5,.9 .6,8.6 .6,8.6 1.7-3.2 .8-5.3 .9-5.4 .8,5.9 .9,5.8 1.7,.3 .9-5.4 .8-5.3zM169.3,941.1l-.9-7.4-.5-8-.6-8.1-5,4.4 .6,8.2 .6,8.1 .8,6.7zM183.3,938.9l-.8-3.9-.9-5.6-.8-5.5-.9,3.1-.9,3.1-.9,3.5-1,3.4-.8-4.4-.9-4.4-.5-3.9-.6-4-.5-3.9-.7,8.8-.6,8.7-.6,8.6-5,.7 .6-7.4 .6-7.4 .7-7.5 .5,6.4 .6,6.3 .5,6.4 .9,3.1 .9,3.2 .9-6.4 .9-6.4 .9-5.1 1-5.3 .8,8.9 .8,8.9 .9,4.9zM201.8,945.1l-.5-8.3-.5-8.5-1,3.7-1,3.7-1,5.5-1,5.5-.8-3.6-.9-3.6-.5-7.6-.5-7.6-.5-7.6-5,5.4 .5,7.2 .5,7.2 .6,7.1 .9,.9 .9,1 .9-2.4 1-2.3 .9-.1 .9-.1 .6,4.4 .6,4.4z"/>
<path color="#f40" d="M202.2,953.5l-.4-8.4-4.9,4.3 .5,4.3zM206.6,951.3l-.5-5.8-.7,4.7-4.9,6.4 .6-2.2 .6,4.6z"/>
<path color="#f60" d="M204,959.6l-1.8-6.1-4.8,.2 1.8,7.3zM205.4,950.2l-.7,4.7-4.9,3.9 .7-2.2zM211.5,957.1l-1.7-8.1-1.1,7.1-4.9,5 1.1-7 1.8,7z"/>
<path color="#f90" d="M204.7,954.9l-.7,4.7-4.8,1.4 .6-2.2zM207.1,957.2l-.5-5.9-4.9,7.7 .5,4.5zM212.4,960.9l-.9-3.8-4.8,4 .9,2.2zM221,958.6l-1.9,.8-4.9,4.1 1.9,2z"/>
<path color="#fa0" d="M208.7,956.1l-1,6.9-.6-5.8-4.9,6.3 .6,4.6 1-7zM213.3,964.8l-.9-3.9-4.8,2.4 .9,2.3zM222.8,966.1l-1.8-7.5-4.9,6.9 1.8,6.6z"/>
<path color="#fc0" d="M215.1,966.5l-1.8-1.7-4.8,.8 1.7,9.5z"/>
<path color="#fe0" d="M224.6,971.9l-1.8-5.8-4.9,6 1.8,3.9z"/>
<path color="#df0" d="M225.3,979.2l-.7-7.3-4.9,4.1 .8,6.9z"/>
<path color="#9e0" d="M228.2,980.1l-2.1,6.3-.8-7.2-4.8,3.7 .8,6.8 2.1-4.1zM231.1,980.2l-1,3.6-4.9,5.6 1-.7zM233.2,986.3l-.5-4.9-4.9,8.2 .7,1.5z"/>
<path color="#be0" d="M230.1,983.8l-1.9-3.7-4.8,5.5 1.8,3.8zM232.7,981.4l-.5-4.9-1.1,3.7-4.9,8.5 1-.7 .6,1.6z"/>
<path color="#8e0" d="M233.8,991.2l-.6-4.9-4.7,4.8 .6,1.5z"/>
<path color="#6e0" d="M235.6,994.7l-1.8-3.5-4.7,1.4 1.8,4.4z"/>
<path color="#4e0" d="M236.5,999.3l-.9-4.6-4.7,2.3 .9,3.1z"/>
<path color="#2e1" d="M237.3,1003.8l-.8-4.5-4.7,.8 .9,3.2z"/>
<path color="#0e2" d="M239.2,1007.8l-1.9-4-4.6-.5 1.8,6.5z"/>
<path color="#0ed" d="M246.8,1015.9l-1.8-6-2,1.2-2,0-1.8-3.3-4.7,2 1.8,6.5 2-2.8 2.1-1.8 1.8,7.3z"/>
<path color="#09f" d="M248.7,1019.7l-1.9-3.8-4.6,3.1 1.8,4.4z"/>
<path color="#07f" d="M249.5,1025l-.8-5.3-4.7,3.7 .9,5.1z"/>
<path color="#02f" d="M250.3,1030.3l-.8-5.3-4.6,3.5 .8,5.2z"/>
<path color="#00f" d="M252.2,1034.6l-1.9-4.3-4.6,3.4 1.9,3.8z"/>
<path color="#20f" d="M254,1041l-1.8-6.4-4.6,2.9 1.8,5.5z"/>
<path color="#70c" d="M255.6,1049.9l-1.6-8.9-4.6,2 1.7,9.1z"/>
<path color="#708" d="M257.4,1055.5l-1.8-5.6-4.5,2.2 1.8,5.6z"/>
<path color="#506" d="M269.5,1060.1l-2-.7-2.1-.6-2-.7-2-.7-2-.7-2-1.2-4.5,2.2 2,1.3 2,.7 2,.7 2.1,.7 2,.6 2,.7z"/>
<path fill="none" stroke="#8c8c8c" stroke-width=".4" stroke-opacity=".7" d="M254.9,1027L245.7,1033.7M237.1,965.1L227.2,988M218,964L208.5,965.6M199.9,935.5L190.2,943.6M182.1,927.9L172.2,946.3M164.8,916.3L154.9,918"/>
<path fill="none" stroke="#4a4a3a" stroke-width=".45" stroke-opacity=".8" d="M265,1062.4l-2-.7-2-.6-2.1-.7-2-.7-2-.7-2-1.3-1.8-5.6-1.7-9.1-1.8-5.5-1.9-3.8-1.7-10.3-1.8-4.4-1.8-7.3-2.1,1.8-2,2.8-1.8-6.5-1.8-6.5-1.8-6.3-1.8-4.4-1.9-4.6-2,1.4-1.8-3.8-2.1,4.1-1.6-13.7-1.8-3.9-1.8-6.6-1.9-2-2.1,9.6-1.9,2-1.7-9.5-1.8-4.5-1.8-7-2.1,14-1.7-13.7-1.9,6.6-1.8-7.3-1.7-13.1-1.8,.2-1.9,4.7-1.8-1.9-1.6-21.5-1.8-9.2-1.8,2.4-2,15.1-2,20.8-1.8-.4-1.7-9.9-1.6-17.8-1.9,10.4-1.8,12.8-1.8-6.3-1.6-19.1-1.9,22.3-1.7,8.6-1.7-13.5-1.7-24.5-1.8,5.5-1.7,10.7-1.7-.3-1.7-11.7-1.7,10.7-1.7,3.2-1.8-25.8-1.6,33.7-1.7-18.9-1.7,1.4-1.7-15.9-1.7,4.1-1.7-12.7-1.5,33.5"/>
<path color="#b00" d="M140.5,904.2l-.9-6.4-.5,11.3-5.1,1.8 .5-7.8 .9,7.7z"/>
<path color="#d00" d="M142.1,908.4l-.8,2.1-.8-6.3-5.1,6.6 .8,7.6 .8-4.4zM143.6,911.7l-.6-5.3-5.1,3.1 .6,6.2zM150.3,914.7l-.6-8.6-5.1,6.9 .6,6.1zM187.7,917.5l-.9-4.6-1.8,2.4-5.1,9.7 1.9-5.3 .8,5.4z"/>
<path color="#e00" d="M144.1,917l-.5-5.3-5.1,4 .6,6.1zM162.3,922l-.5-8.2-.9,2.7-5.1,6.5 .9-5.2 .6,6.6zM188.6,922.1l-.9-4.6-5.1,7.6 .9,5.3z"/>
<path color="#f00" d="M160.9,916.5l-.9,2.8-.8,5.3-.9,5.4-.9-.2-.8-.1-.9-5.8-.8-5.9-.9,5.4-.8,5.3-1.7,3.2-.6-8.6-.6-8.6-5.1,4.4 .6,6.1 .6,6.1 1.7-1.4 .8-2.7 .9-2.7 .8,.4 .9,.3 .9,3.4 .8,3.4 .9-1.9 .9-1.9 .8-5.2zM164.3,945l-.8-6.7-.6-8.1-.6-8.2-5,2.4 .5,6.5 .6,6.5 .9,5.1zM177.5,940.9l-.8-8.9-.8-8.9-1,5.3-.9,5.1-.9,6.4-.9,6.4-1.8-6.3-.5-6.4-.6-6.3-.5-6.4-.7,7.5-.6,7.4-.6,7.4-5,1.2 .6-4.9 .6-4.9 .6-4.9 .6,3.2 .5,3.2 .6,3.1 1.8,3.7 .9-1.7 .9-1.7 .9-3.8 .9-3.7 .8,7.7 .9,7.7zM192,945.5l-1.8-1.9-.6-7.1-.5-7.2-.5-7.2-5.1,8.3 .6,5.4 .5,5.3 .6,5.4 1.8,5.8zM195.7,940.6l-1.8,.2-5.1,11.9 1.9-.2z"/>
<path color="#f20" d="M193.9,940.8l-1.9,4.7-5,6.8 1.8,.4zM196.6,947.2l-.9-6.6-5,11.9 .8,3.4z"/>
<path color="#f40" d="M197.4,953.7l-.8-6.5-5.1,8.7 .9,3.5z"/>
<path color="#f90" d="M202,961.3l-.9-6.9-1.9,6.6-1.8-7.3-5,5.7 1.8,6 1.9-.4 .9,3zM206.7,961.1l-1.8-7-1.1,7-4.9,4.1 1-5.8 1.8,8z"/>
<path color="#fc0" d="M203.8,961.1l-1,7-.8-6.8-5,6.7 .9,3 1-5.8zM217.9,972.1l-1.8-6.6-4.8,1.6 1.8,3.6z"/>
<path color="#fa0" d="M208.5,965.6l-1.8-4.5-5,6.3 1.9,0zM216.1,965.5l-1.9-2-4.9,6.6 2-3z"/>
<path color="#fe0" d="M210.2,975.1l-1.7-9.5-4.9,1.8 1.7,8.3zM218.8,974l-.9-1.9-4.8-1.4 .9,3.8z"/>
<path color="#ef0" d="M219.7,976l-.9-2-4.8,.5 .9,3.8z"/>
<path color="#df0" d="M220.5,982.9l-.8-6.9-4.8,2.3 .8,6.2z"/>
<path color="#9e0" d="M225.2,989.4l-1.8-3.8-2.1,4.1-.8-6.8-4.8,1.6 .9,6.1 1.9-1.4 1.9,3.1z"/>
<path color="#8e0" d="M229.1,992.6l-1.9-4.6-2,1.4-4.8,2.9 2,.7 1.8,3.8z"/>
<path color="#6e0" d="M230.9,997l-1.8-4.4-4.9,4.2 1.8,6.4z"/>
<path color="#2e1" d="M232.7,1003.3l-1.8-6.3-4.9,6.2 1.9,4z"/>
<path color="#0e2" d="M234.5,1009.8l-1.8-6.5-4.8,3.9 2,1.2z"/>
<path color="#0ed" d="M236.3,1016.3l-1.8-6.5-4.6-1.4 1.7,8.1zM240.4,1011.7l-2.1,1.8-4.7,4.1 2-.5z"/>
<path color="#0cf" d="M238.3,1013.5l-2,2.8-4.7,.2 2,1.1zM242.2,1019l-1.8-7.3-4.8,5.4 1.8,6.9z"/>
<path color="#09f" d="M244,1023.4l-1.8-4.4-4.8,5 1.9,2.4z"/>
<path color="#05f" d="M244.9,1028.5l-.9-5.1-4.7,3 .9,4.6z"/>
<path color="#02f" d="M245.7,1033.7l-.8-5.2-4.7,2.5 .9,4.6z"/>
<path color="#00f" d="M247.6,1037.5l-1.9-3.8-4.6,1.9 1.8,4.5z"/>
<path color="#50e" d="M249.4,1043l-1.8-5.5-4.7,2.6 1.9,5z"/>
<path color="#70c" d="M251.1,1052.1l-1.7-9.1-4.6,2.1 1.7,9.3z"/>
<path color="#708" d="M252.9,1057.7l-1.8-5.6-4.6,2.3 1.8,5.6z"/>
<path color="#506" d="M265,1062.4l-2-.7-2-.6-2.1-.7-2-.7-2-.7-2-1.3-4.6,2.3 2,1.3 2,.7 2.1,.7 2,.7 2,.7 2.1,.7z"/>
<path color="#c00" d="M135.4,910.8l-.9-7.7-.5,7.8-5.2,1.7 .5-4.2 .9,9.1z"/>
<path color="#f00" d="M137,914l-.8,4.4-.8-7.6-5.2,6.7 .9,8.9 .8-6.8zM142.5,937.5l-.6-5.6-.6-5.5-1.7,1.5-.5-6.1-.6-6.1-5.2,4 .6,6.9 .6,6.8 1.7-1.5 .6,4.8 .6,4.8zM160.2,947.6l-.9-5.1-.9-5.1-.6-6.5-.5-6.5-.6-6.6-.9,5.2-.8,5.2-.9,1.9-.9,1.9-.8-3.4-.9-3.4-.9-.3-.8-.4-.9,2.7-.8,2.7-1.7,1.4-.6-6.1-.6-6.1-5.1,4.4 .5,3.6 .6,3.6 1.7,.5 .9,0 .8,0 .9-5.3 .8-5.2 .9,6.7 .9,6.7 .9,1.5 .8,1.5 .9-7.6 .8-7.6 .6,4.9 .6,4.9 .6,4.9 .9,3.4 .9,3.4zM171.6,939.7l-.8-7.7-.9,3.7-.9,3.8-.9,1.7-.9,1.7-1.8-3.7-.6-3.1-.5-3.2-.6-3.2-.6,4.9-.6,4.9-.6,4.9-5.1,1.2 .6-2.3 .6-2.3 .6-2.4 .5,0 .6-.1 .6,0 1.8,.8 .9,3.1 .9,3.1 .9-2.3 .9-2.3 .8,6.6zM185.2,946.5l-.6-5.4-.5-5.3-.6-5.4-.9-5.3-.8-5.4-1.9,5.3-.7,6.4-.6,6.3-5.2,12.4 .7-7.7 .6-7.7 1.9-8.1 .9,6.1 .9,6.1 .6,3.5 .5,3.5 .6,3.6z"/>
<path color="#d00" d="M138.5,915.7l-.6-6.2-.9,4.5-5.1,5.6 .8-6.9 .6,7z"/>
<path color="#e00" d="M145.2,919.1l-.6-6.1-5.1,6.9 .6,3.6z"/>
<path color="#f20" d="M172.5,947.4l-.9-7.7-5.1,7.8 .9,6.5zM187,952.3l-1.8-5.8-5.1,2.9 1.8,9.7z"/>
<path color="#f60" d="M191.5,955.9l-.8-3.4-1.9,.2-1.8-.4-5.1,6.8 1.8,5.6 1.8-.3 1,.4z"/>
<path color="#f90" d="M192.4,959.4l-.9-3.5-5,8.9 .9,.3z"/>
<path color="#fa0" d="M194.2,965.4l-1.8-6-5,5.7 1.8,4.8zM201.7,967.4l-1.8-8-1,5.8-5,4.1 1-4.6 1.8,9.1zM213.1,970.7l-1.8-3.6-5,1.5 2,.6z"/>
<path color="#fc0" d="M196.1,965l-1.9,.4-5,4.5 1.8,5.9zM203.6,967.4l-1.9,0-5,6.4 1.9-4.6zM214,974.5l-.9-3.8-4.8-1.5 .8,5.8z"/>
<path color="#fe0" d="M197.9,971l-.9-3-.9-3-5.1,10.8 .9-1 1-.9zM205.3,975.7l-1.7-8.3-5,1.8 1.8,7zM214.9,978.3l-.9-3.8-4.9,.5 .9,5.7z"/>
<path color="#df0" d="M215.7,984.5l-.8-6.2-4.9,2.4 .8,5.4z"/>
<path color="#9e0" d="M218.5,989.2l-1.9,1.4-.9-6.1-4.9,1.6 .9,5.4 1.9,1.5z"/>
<path color="#8e0" d="M222.4,993l-2-.7-1.9-3.1-4.9,3.8 1.9,2.3 1.9,2.8z"/>
<path color="#6e0" d="M224.2,996.8l-1.8-3.8-5,5.1 1.9,2.8z"/>
<path color="#4e0" d="M226,1003.2l-1.8-6.4-4.9,4.1 1.8,8.6z"/>
<path color="#0e2" d="M229.9,1008.4l-2-1.2-1.9-4-4.9,6.3 1.9,1.7 2.1-4.2z"/>
<path color="#0e7" d="M231.6,1016.5l-1.7-8.1-4.8-1.4 1.8,9.6z"/>
<path color="#0cf" d="M235.6,1017.1l-2,.5-2-1.1-4.7,.1 1.8,5.2 2,.8z"/>
<path color="#09f" d="M237.4,1024l-1.8-6.9-4.9,5.5 1.8,6.4z"/>
<path color="#07f" d="M239.3,1026.4l-1.9-2.4-4.9,5 2,.5z"/>
<path color="#05f" d="M240.2,1031l-.9-4.6-4.8,3.1 .9,4z"/>
<path color="#02f" d="M241.1,1035.6l-.9-4.6-4.8,2.5 .9,4.1z"/>
<path color="#00f" d="M242.9,1040.1l-1.8-4.5-4.8,2 1.9,5.1z"/>
<path color="#50e" d="M244.8,1045.1l-1.9-5-4.7,2.6 1.9,4.5z"/>
<path color="#70c" d="M246.5,1054.4l-1.7-9.3-4.7,2.1 1.7,9.5z"/>
<path color="#708" d="M248.3,1060l-1.8-5.6-4.7,2.3 1.9,5.7z"/>
<path color="#506" d="M260.5,1064.8l-2.1-.7-2-.7-2-.7-2.1-.7-2-.7-2-1.3-4.6,2.4 2,1.3 2,.7 2,.7 2.1,.7 2,.7 2.1,.7z"/>
<path fill="none" stroke="#8c8c8c" stroke-width=".4" stroke-opacity=".7" d="M245.7,1033.7L236.3,1037.6M227.2,988L217.4,998.1M208.5,965.6L198.6,969.2M190.2,943.6L180.1,949.4M172.2,946.3L162.1,939.3M154.9,918L144.6,931.2"/>
<path fill="none" stroke="#4a4a3a" stroke-width=".45" stroke-opacity=".8" d="M255.9,1067.2l-2.1-.7-2-.7-2.1-.7-2-.7-2-.7-2-1.3-1.9-5.7-1.7-9.5-1.9-4.5-1.9-5.1-1.8-8.1-2-.5-1.8-6.4-2-.8-1.8-5.2-1.8-9.6-2.1,4.2-1.9-1.7-1.8-8.6-1.9-2.8-1.9-2.8-1.9-2.3-1.9-1.5-1.7-10.8-1.7-11.5-2-.6-2.1,8.2-1.9,2.3-1.9-2.9-1.8-7-1.9,4.6-1.8-9.1-2,9.2-1.9,1.9-1.8-5.9-1.8-4.8-1.9-.7-1.8,.3-1.8-5.6-1.8-9.7-1.7-10.6-1.8-12.2-1.9,8.1-1.9,23-1.8-11.4-1.8-.3-1.8,8-1.7-13.1-1.8,4.6-1.8-6.2-1.8-.8-1.7,.1-1.8,7-1.7-2.2-1.8-6.8-1.8-14.7-1.7,15.2-1.7-3-1.8-13.4-1.7,10.5-1.7,0-1.7-.5-1.7-10.8-1.5,26.4-1.8-14.4-1.7,1.5-1.8-20.7-1.6,13.7-1.8-18-1.6,12.6"/>
<path color="#e00" d="M130.2,917.5l-.9-9.1-.8,6.3-5.2,8.8 .8-4.4 .9,6.9z"/>
<path color="#f00" d="M166.5,947.5l-.8-6.6-1.8,4.6-1.8-6.2-1.8-.8-.9,.1-.8,0-1.8,7-1.7-2.2-1.8-6.8-.9-7.4-.9-7.3-.8,7.6-.9,7.6-1.7-3-.9-6.7-.9-6.7-.8,5.2-.9,5.3-1.7,0-.8-.2-.9-.3-.8-5.4-.9-5.4-.5,8.9-.5,8.8-.5,8.7-.9-7.2-.9-7.2-1.7,1.5-.6-6.8-.6-6.9-.6-7-.8,6.9-.8,6.8-.9-8.9-5.2,8.5 .9,6.8 .8-6.1 .8-6 .6,6.5 .6,6.5 .6,6.4 1.7-1.4 .8,.9 .9,1 .5-5.7 .5-5.8 .5-5.8 .9,1.7 .9,1.7 .8,4.3 .9,4.3 1.8,3.1 .8-5.5 .8-5.6 .9,5.2 .9,5.2 1.7,2.9 .9-7 .8-7.1 .9,5.3 .9,5.3 1.8,6.8 1.7,2.8 1.8-2.1 .9-3.2 .8-3.3 1.8,3.2 1.8,4.1 1.8,1.7 .9,6zM171,946.3l-1.8-.3-5.1,3 1.8-.6zM180.1,949.4l-.8-5.3-.9-5.3-.9-6.1-.9-6.1-1.9,8.1-.6,7.7-5.2,7.3 .6-6.3 1.9-4.2 .9,1.4 .9,1.4 .9,6.5 .9,6.6z"/>
<path color="#f40" d="M167.4,954l-.9-6.5-5.1,5.6 .9,6.1zM181.9,959.1l-1.8-9.7-5.1,5.7 1.8,5.9z"/>
<path color="#f20" d="M171.9,952l-.9-5.7-5.1,2.1 .9,6.9z"/>
<path color="#f90" d="M183.7,964.7l-1.8-5.6-5.1,1.9 1.8,5z"/>
<path color="#fa0" d="M187.4,965.1l-1.9-.7-1.8,.3-5.1,1.3 1.8,4 1.9,.3z"/>
<path color="#fc0" d="M189.2,969.9l-1.8-4.8-5.1,5.2 1.8,4.3zM196.7,973.8l-1.8-9.1-1,4.6-5.1,4.1 1-3 1.8,8.5zM209.1,975l-.8-5.8-2-.6-5,4.5 1.8,3.7 1,3.2z"/>
<path color="#fe0" d="M191,975.8l-1.8-5.9-5.1,4.7 1.8,2.1zM200.4,976.2l-1.8-7-1.9,4.6-5.1,5.1 2-5.4 1.8,4.3z"/>
<path color="#ef0" d="M204.2,976.8l-1.9,2.3-1.9-2.9-5,1.6 1.8,5.3 2-2zM210,980.7l-.9-5.7-5,5 .9,3.3z"/>
<path color="#df0" d="M210.8,986.1l-.8-5.4-5,2.6 .9,4.2z"/>
<path color="#be0" d="M211.7,991.5l-.9-5.4-4.9,1.4 .9,4.3z"/>
<path color="#9e0" d="M213.6,993l-1.9-1.5-4.9,.3 1.9,2z"/>
<path color="#8e0" d="M215.5,995.3l-1.9-2.3-4.9,.8 1.8,5.3z"/>
<path color="#6e0" d="M219.3,1000.9l-1.9-2.8-1.9-2.8-5,3.8 2,.3 1.9,2.5z"/>
<path color="#2e1" d="M221.1,1009.5l-1.8-8.6-4.9,1 1.8,8.5z"/>
<path color="#0e2" d="M225.1,1007l-2.1,4.2-1.9-1.7-4.9,.9 2,2.6 2-3.6z"/>
<path color="#0e7" d="M226.9,1016.6l-1.8-9.6-4.9,2.4 1.8,9z"/>
<path color="#0cf" d="M230.7,1022.6l-2-.8-1.8-5.2-4.9,1.8 1.9,4.8 2,1.3z"/>
<path color="#09f" d="M232.5,1029l-1.8-6.4-4.8,1.9 1.8,6.3z"/>
<path color="#07f" d="M234.5,1029.5l-2-.5-4.8,1.8 2,2.6z"/>
<path color="#02f" d="M236.3,1037.6l-1.8-8.1-4.8,3.9 1.8,5.8z"/>
<path color="#00f" d="M238.2,1042.7l-1.9-5.1-4.8,1.6 1.9,5.1z"/>
<path color="#50e" d="M240.1,1047.2l-1.9-4.5-4.8,1.6 1.9,4.3z"/>
<path color="#70d" d="M241.8,1056.7l-1.7-9.5-4.8,1.4 1.8,9.3z"/>
<path color="#708" d="M243.7,1062.4l-1.9-5.7-4.7,1.2 1.8,6.4z"/>
<path color="#506" d="M255.9,1067.2l-2.1-.7-2-.7-2.1-.7-2-.7-2-.7-2-1.3-4.8,1.9 2,1.7 2.1,.8 2,.7 2,.7 2.1,.7 2.1,.7z"/>
<path color="#f00" d="M151.6,946.7l-1.7-2.8-1.8-6.8-.9-5.3-.9-5.3-.8,7.1-.9,7-1.7-2.9-.9-5.2-.9-5.2-.8,5.6-.8,5.5-1.8-3.1-.9-4.3-.8-4.3-.9-1.7-.9-1.7-.5,5.8-.5,5.8-.5,5.7-.9-1-.8-.9-1.7,1.4-.6-6.4-.6-6.5-.6-6.5-.8,6-.8,6.1-.9-6.8-.9-6.9-.8,4.4-.8,4.4-5.2,7 .8-2.5 .8-2.5 .9,4.6 .8,4.7 .8-5.2 .8-5.3 .6,6.1 .6,6 .7,6.1 1.6-1.4 .8-5.3 .8-5.5 .5-2.6 .6-2.7 .5-2.6 .8-2.1 .9-2.1 .9,8.5 .9,8.4 1.8,6.2 .8-5.8 .8-5.9 .9,3.7 .9,3.7 1.8,2.6 .8-6.4 .8-6.4 .9,3.3 .9,3.2 1.8,6.6 1.8,3.6zM160.5,947.1l-1.8-1.7-1.8-4.1-1.8-3.2-.8,3.3-.9,3.2-5.3,6.1 .9-6.5 .9-6.5 1.8,5.7 1.7,1.8 1.8,8.1zM174.1,948.5l-.9-6.5-.9-1.4-.9-1.4-1.9,4.2-5.2,8.8 1.8-.2 1-3.4 .9-3.3 .9,7.8z"/>
<path color="#f40" d="M161.4,953.1l-.9-6-5.3,6.2 .9,5.6zM166.8,955.3l-.9-6.9-5.2,2.1 .8,8.2z"/>
<path color="#f20" d="M165.9,948.4l-1.8,.6-5.3,3.1 1.9-1.6zM175,955.1l-.9-6.6-5.2,4.6 .9,7.8z"/>
<path color="#f60" d="M176.8,961l-1.8-5.9-5.2,5.8 1.8,1.9z"/>
<path color="#f90" d="M178.6,966l-1.8-5-5.2,1.8 1.8,4.6z"/>
<path color="#fc0" d="M180.4,970l-1.8-4-5.2,1.4 1.8,8.2z"/>
<path color="#fe0" d="M184.1,974.6l-1.8-4.3-1.9-.3-5.2,5.6 1.9,0 1.8,3.8zM191.6,978.9l-1.8-8.5-1,3-1,2.9-5.1,2.5 1-1.3 .9-1.2 1.8,7.7zM195.4,977.8l-1.8-4.3-5.2,4.4 1.9,1.6zM203.1,976.8l-1.8-3.7-2.1,8-5.1,4.4 2-7.8 1.9,6.8z"/>
<path color="#ef0" d="M187.8,976.3l-1.9,.4-1.8-2.1-5.2,4.8 1.9-1.7 1.9,1.1zM197.2,983.1l-1.8-5.3-5.1,1.7 1.8,7.7zM205,983.3l-.9-3.3-1-3.2-5.1,7.7 .9,.7 1,.7z"/>
<path color="#df0" d="M205.9,987.5l-.9-4.2-5.1,2.6 .9,3.1z"/>
<path color="#be0" d="M206.8,991.8l-.9-4.3-5.1,1.5 1,3.1z"/>
<path color="#9e0" d="M208.7,993.8l-1.9-2-5,.3 1.9,2.6z"/>
<path color="#8e0" d="M210.5,999.1l-1.8-5.3-5,.9 1.8,8.3z"/>
<path color="#6e0" d="M214.4,1001.9l-1.9-2.5-2-.3-5,3.9 2-2.3 1.9,2.1z"/>
<path color="#2e1" d="M216.2,1010.4l-1.8-8.5-5,.9 1.9,8.5z"/>
<path color="#0e2" d="M220.2,1009.4l-2,3.6-2-2.6-4.9,.9 1.9,3.5 2-2.9z"/>
<path color="#0e7" d="M222,1018.4l-1.8-9-5,2.5 1.9,8.2z"/>
<path color="#0ed" d="M223.9,1023.2l-1.9-4.8-4.9,1.7 1.9,4.5z"/>
<path color="#0cf" d="M225.9,1024.5l-2-1.3-4.9,1.4 1.9,1.9z"/>
<path color="#09f" d="M227.7,1030.8l-1.8-6.3-5,2 1.9,6.2z"/>
<path color="#05f" d="M229.7,1033.4l-2-2.6-4.9,1.9 1.9,4.7z"/>
<path color="#02f" d="M231.5,1039.2l-1.8-5.8-5,4 2,3.5z"/>
<path color="#00f" d="M233.4,1044.3l-1.9-5.1-4.8,1.7 1.9,4.9z"/>
<path color="#20f" d="M235.3,1048.6l-1.9-4.3-4.8,1.5 1.9,4.1z"/>
<path color="#70d" d="M237.1,1057.9l-1.8-9.3-4.8,1.3 1.8,9.1z"/>
<path color="#70a" d="M238.9,1064.3l-1.8-6.4-4.8,1.1 1.8,7.3z"/>
<path color="#506" d="M251.2,1069.6l-2.1-.7-2.1-.7-2-.7-2-.7-2.1-.8-2-1.7-4.8,2 2,2.1 2,.8 2.1,.7 2.1,.8 2,.7 2.1,.7z"/>
<path fill="none" stroke="#8c8c8c" stroke-width=".4" stroke-opacity=".7" d="M236.3,1037.6L226.7,1040.9M217.4,998.1L207.5,1000.7M198.6,969.2L188.4,977.9M180.1,949.4L169.8,960.9M162.1,939.3L151.7,943.4M144.6,931.2L134.2,945.7"/>
<path fill="none" stroke="#4a4a3a" stroke-width=".45" stroke-opacity=".8" d="M246.4,1072.1l-2.1-.7-2-.7-2.1-.8-2.1-.7-2-.8-2-2.1-1.8-7.3-1.8-9.1-1.9-4.1-1.9-4.9-2-3.5-1.9-4.7-1.9-6.2-1.9-1.9-1.9-4.5-1.9-8.2-2,2.9-1.9-3.5-1.9-8.5-1.9-2.1-2,2.3-1.8-8.3-1.9-2.6-1.9-6.2-1.9-1.4-1.9-6.8-2,7.8-2,1.7-1.8-7.7-1.9-1.6-2,6.1-1.8-7.7-1.9,2.5-1.9-1.1-1.9,1.7-1.8-3.8-1.9,0-1.8-8.2-1.8-4.6-1.8-1.9-1.8-15.6-1.9,6.7-1.8,.2-1.9,14.7-1.7-16.4-1.9,1.6-1.8,12.3-1.8-11.1-1.8-8.1-1.7-1.8-1.8-5.7-1.8,13-1.7-2.8-1.8-3.6-1.8-6.6-1.8-6.5-1.6,12.8-1.8-2.6-1.8-7.4-1.6,11.7-1.8-6.2-1.8-16.9-1.7,4.2-1.6,7.9-1.6,10.8-1.6,1.4-1.9-18.2-1.6,10.5-1.7-9.3-1.6,5"/>
<path color="#f00" d="M123.1,937.8l-.9-9.1-.8,5.3-.8,5.2-1.7-9.3-1.6,5-5.4,4.1 1.6-1.8 1.8,8.2 .8-5.2 .7-5.1 1,9zM146.4,947.9l-1.8-3.6-1.8-6.6-1.8-6.5-.8,6.4-.8,6.4-1.8-2.6-1.8-7.4-.8,5.9-.8,5.8-.9-3.1-.9-3.1-.9-8.4-.9-8.5-1.7,4.2-.8,4-.8,3.9-.8,5.5-.8,5.3-.5,.5-5.4-1.1 .5-4.1 .8-.7 .8-.7 .8-4.5 .8-4.6 1.7-3.5 .9,5.9 .9,6 1,5.6 .9,5.7 .8-3.9 .8-3.9 1.8,2.7 1.7-2.1 .8-6 .8-6.1 1.8,4 1.8,6.9 1.8,6.2zM155.2,953.3l-1.8-8.1-1.7-1.8-1.8-5.7-.9,6.5-5.3,5.7 .9-1.6 1.7-.7 1.8-.1 1.8,5.3zM168.9,953.1l-.9-7.8-.6,2.2-5.3,7 .6-4.9 .9,6z"/>
<path color="#f20" d="M149,944.2l-.9,6.5-1.7-2.8-5.4-.1 1.8,3.7 .9-1.6zM161.5,958.7l-.8-8.2-1.9,1.6-5.3,0 1.8-1.5 1,7z"/>
<path color="#f90" d="M163.4,959.6l-1,7.3-.9-8.2-5.2-1.1 .9,7.1 .9-3.8zM173.4,967.4l-1.8-4.6-5.3,.3 1.9,2.5z"/>
<path color="#f40" d="M169.8,960.9l-.9-7.8-5.3,2.5 .9,6.1z"/>
<path color="#f60" d="M171.6,962.8l-1.8-1.9-5.3,.8 1.8,1.4z"/>
<path color="#fc0" d="M175.2,975.6l-1.8-8.2-5.2-1.8 1.8,7.5z"/>
<path color="#fe0" d="M178.9,979.4l-1.8-3.8-1.9,0-5.2-2.5 1.9,2.7 1.8,3.5zM190.3,979.5l-1.9-1.6-5.2,1.6 1.9,.5z"/>
<path color="#ef0" d="M188.4,977.9l-2,6.1-1.8-7.7-1.9,2.5-1.9-1.1-1.9,1.7-5.2-.1 1.9,3.3 1.9,.4 1.9-3.3 1.8,5.5 2-5.7zM191.2,983.4l-.9-3.9-5.2,.5 .9,6.3zM197,981.1l-.9-3.4-2,7.8-5.2,4.3 2-6.5 .9,4.4z"/>
<path color="#be0" d="M194.1,985.5l-2,1.7-.9-3.8-5.2,2.9 .9,6.3 2-2.8zM201.8,992.1l-1.9-6.2-5.2,6.5 1.9,.5z"/>
<path color="#df0" d="M199.9,985.9l-1.9-1.4-1-3.4-5.2,6.6 .9,4.4 2,.3z"/>
<path color="#9e0" d="M203.7,994.7l-1.9-2.6-5.2,.8 2,3z"/>
<path color="#8e0" d="M205.5,1003l-1.8-8.3-5.1,1.2 1.8,8.6z"/>
<path color="#6e0" d="M210.4,1007l-1-4.2-.9-1-1-1.1-2,2.3-5.1,1.5 1.9,2.2 1.1-2.7 1-2.6 .9,4.8z"/>
<path color="#2e1" d="M211.3,1011.3l-.9-4.3-5.1-.8 .9,4.7z"/>
<path color="#0e2" d="M215.2,1011.9l-2,2.9-1.9-3.5-5.1-.4 1.9,5.1 2,1.1z"/>
<path color="#0e7" d="M217.1,1020.1l-1.9-8.2-5.1,5.2 1.9,5.1z"/>
<path color="#0cf" d="M220.9,1026.5l-1.9-1.9-1.9-4.5-5.1,2.1 1.9,7.4 2-1.9z"/>
<path color="#09f" d="M222.8,1032.7l-1.9-6.2-5,1.2 2,4.8z"/>
<path color="#05f" d="M224.7,1037.4l-1.9-4.7-4.9-.2 1.8,7.3z"/>
<path color="#02f" d="M226.7,1040.9l-2-3.5-5,2.4 2,2.7z"/>
<path color="#00f" d="M228.6,1045.8l-1.9-4.9-5,1.6 1.9,4.9z"/>
<path color="#20f" d="M230.5,1049.9l-1.9-4.1-5,1.6 2,4z"/>
<path color="#70d" d="M232.3,1059l-1.8-9.1-4.9,1.5 1.8,8.8z"/>
<path color="#70a" d="M234.1,1066.3l-1.8-7.3-4.9,1.2 1.8,8z"/>
<path color="#708" d="M236.1,1068.4l-2-2.1-4.9,1.9 2,2.7z"/>
<path color="#506" d="M246.4,1072.1l-2.1-.7-2-.7-2.1-.8-2.1-.7-2-.8-4.9,2.5 2.1,.8 2,.7 2.1,.8 2.1,.7 2,.7z"/>
<path color="#f00" d="M113.5,937.2l-1.6,1.8-5.4,4.2 1.6,1.5zM117.8,944.1l-1-9-.7,5.1-5.4,6.4 .7-5.1 1,9zM128,944.3l-1-5.6-.9-6-.9-5.9-1.7,3.5-.8,4.6-.8,4.5-.8,.7-.8,.7-.5,4.1-5.5-1.1 .4-7.9 .9,4.1 .9,4.2 .8-5.2 .8-5.1 1.6-2.9 .9,3.4 .9,3.5 1,8.2zM142.8,951.5l-1.8-3.7-1.8-6.2-1.8-6.9-1.8-4-.8,6.1-.8,6-1.7,2.1-1.8-2.7-5.4,8.3 1.7-1.9 1.7-7 .8-5.7 .8-5.7 1.8,1.5 1.8,7.2 1.9,8.8 1.8,4.6zM149.9,952.8l-1.8-5.3-1.8,.1-5.4,4.3 1.8-2.1 1.8,2.5z"/>
<path color="#f20" d="M116.1,940.2l-.8,5.2-1.8-8.2-5.4,7.5 1.8,7 .8-5.1zM146.3,947.6l-1.7,.7-.9,1.6-.9,1.6-5.4,.8 .9,3.3 .9,3.4 1.7-7.1zM156.3,957.6l-1-7-5.4,.1 1,5.8zM163.6,955.6l-.9-6-.6,4.9-5.4,7 .6-7.6 .9,4.3z"/>
<path color="#f40" d="M150.8,957.7l-.9-4.9-5.4-.5 .9,4.3zM164.5,961.7l-.9-6.1-5.4,2.6 .9,4.3z"/>
<path color="#f60" d="M159.9,960.6l-.9-3.5-.9,3.8-.9,3.8-.9-7.1-5.4-1.1 .9,5.9 .9-.2 .9-.1 .9,7.2zM168.2,965.6l-1.9-2.5-1.8-1.4-5.4,.8 1.9,.9 1.9,.4z"/>
<path color="#f90" d="M170,973.1l-1.8-7.5-5.3-1.8 1.8,6.8z"/>
<path color="#fc0" d="M171.9,975.8l-1.9-2.7-5.3-2.5 1.9,5.4z"/>
<path color="#fe0" d="M173.7,979.3l-1.8-3.5-5.3,.2 1.8,3.2zM185.1,980l-1.9-.5-5.3,1.6 2-.5z"/>
<path color="#ef0" d="M175.6,982.6l-1.9-3.3-5.3-.1 1.9,8.4zM183.2,979.5l-2,5.7-1.8-5.5-1.9,3.3-5.3,4.4 1.9-4.1 1.9,3.2 1.9-5.4zM186,986.3l-.9-6.3-5.2,.6 .8,8.7z"/>
<path color="#df0" d="M177.5,983l-1.9-.4-5.3,5 1.9-.2zM191.8,987.7l-.9-4.4-2,6.5-5.3,4.4 2-5.3 .9,5.4z"/>
<path color="#be0" d="M186.9,992.6l-.9-6.3-5.3,3 .9,8.7zM192.7,992.1l-.9-4.4-5.3,6.6 .9,5.4zM198.6,995.9l-2-3-1.9-.5-5.3,6.6 2-5.3 2,3.5z"/>
<path color="#9e0" d="M194.7,992.4l-2-.3-5.3,7.6 2-.7z"/>
<path color="#8e0" d="M200.4,1004.5l-1.8-8.6-5.2,1.3 1.8,8.8zM205.3,1006.2l-.9-4.8-1,2.6-5.2,2.4 1.1-6.5 .9,5.4z"/>
<path color="#4e0" d="M203.4,1004l-1.1,2.7-1.9-2.2-5.2,1.5 1.9,6.7 1.1-6.3zM206.2,1010.9l-.9-4.7-5.1-.9 .9,5.3z"/>
<path color="#2e1" d="M208.1,1016l-1.9-5.1-5.1-.3 1.9,6.6z"/>
<path color="#0e7" d="M212,1022.2l-1.9-5.1-2-1.1-5.1,1.2 1.9,5.2 2,1.9z"/>
<path color="#0cf" d="M213.9,1029.6l-1.9-7.4-5.1,2.1 1.8,10.3z"/>
<path color="#09f" d="M217.9,1032.5l-2-4.8-2,1.9-5.2,5 2.2-5.7 1.9,3.4z"/>
<path color="#07f" d="M219.7,1039.8l-1.8-7.3-5.1-.2 1.8,10z"/>
<path color="#02f" d="M221.7,1042.5l-2-2.7-5.1,2.5 2.1,1.8z"/>
<path color="#00f" d="M223.6,1047.4l-1.9-4.9-5,1.6 1.9,4.9z"/>
<path color="#20f" d="M225.6,1051.4l-2-4-5,1.6 2,3.9z"/>
<path color="#70d" d="M227.4,1060.2l-1.8-8.8-5,1.5 1.8,8.6z"/>
<path color="#70a" d="M229.2,1068.2l-1.8-8-5,1.3 1.8,8.8z"/>
<path color="#708" d="M231.2,1070.9l-2-2.7-5,2.1 2,3z"/>
<path color="#506" d="M241.5,1074.6l-2-.7-2.1-.7-2.1-.8-2-.7-2.1-.8-5,2.4 2.1,.9 2.1,.8 2,.7 2.1,.8 2.1,.7z"/>
<path fill="none" stroke="#8c8c8c" stroke-width=".4" stroke-opacity=".7" d="M226.7,1040.9L216.7,1044.1M207.5,1000.7L197.1,1012.7M188.4,977.9L177.9,981.1M169.8,960.9L159.1,962.5M151.7,943.4L140.9,951.9M134.2,945.7L123.5,954.3"/>
<path fill="none" stroke="#4a4a3a" stroke-width=".45" stroke-opacity=".8" d="M236.6,1077.2l-2.1-.7-2.1-.8-2-.7-2.1-.8-2.1-.9-2-3-1.8-8.8-1.8-8.6-2-3.9-1.9-4.9-2.1-1.8-1.8-10-1.9-3.4-2.2,5.7-1.8-10.3-2-1.9-1.9-5.2-1.9-6.6-1.8-10.7-2.2,12.8-1.9-6.7-1.8-8.8-2-3.5-2,5.3-2,.7-1.8-10.8-2,5.3-2,3.8-1.7-17.4-2,.5-1.9,5.4-1.9-3.2-1.9,4.1-1.9,.2-1.9-8.4-1.8-3.2-1.9-5.4-1.8-6.8-1.9-.4-1.9-.9-1.8-8.6-1.8,22.6-1.9-14.4-1.8,.3-1.9-11.7-1.8,1.4-1.8,8.8-1.8-8.6-1.8-2.5-1.8,2.1-1.7,7.1-1.8-6.7-1.8-4.6-1.9-8.8-1.8-7.2-1.8-1.5-1.6,11.4-1.7,7-1.7,1.9-1.6,3.8-2-16.4-1.8-6.9-1.6,2.9-1.6,10.3-1.8-8.3-1.3,23.6-2-18-1.5,10.2-1.8-7-1.6-1.5"/>
<path color="#f20" d="M108.1,944.7l-1.6-1.5-5.5,4.6 1.6,.5zM137.4,952.3l-1.8-4.6-5.5,8.7 1.8,1.2zM143.6,951.1l-.9-1.3-1.8,2.1-5.4,8.8 1.7-4.6 .9-2zM145.4,956.6l-.9-4.3-5.5-.3 .9,6.3zM150.9,956.5l-1-5.8-5.5,2.7 1,5zM158.2,958.2l-.9-4.3-5.5,4.5 1,5.2z"/>
<path color="#f40" d="M110.7,946.6l-.8,5.1-1.8-7-5.5,3.6 1.8,6.1 .8-1.2zM112.4,950.5l-1-9-5.4,10.4 1,5.8zM125.1,950.5l-1.6,3.8-1-8.2-5.5,4 1,8.5 1.6-5zM151.8,962.4l-.9-5.9-5.5,1.9 .9,4.9z"/>
<path color="#f00" d="M122.5,946.1l-1-8.2-1.8-6.9-1.6,2.9-.8,5.1-.8,5.2-1.8-8.3-.4,7.9-5.5,7.4 .4-6.2 1.8,4.5 .8-4 .8-4.1 1.6-5.1 1.8,5.3 1,8.5zM135.6,947.7l-.6-2.9-.7-2.9-.6-3-1.8-7.2-.9-.7-.9-.8-.8,5.7-.8,5.7-1.7,7-5.5,0 1.7-3.6 .8-2 .9-2.1 .8-3.6 .8-3.7 1.8,3.3 .7,6.6 .7,6.5 .6,6.4zM144.5,952.3l-.9-1.2-5.5,3 .9-2.1z"/>
<path color="#f60" d="M146.3,960.9l-.9-4.3-5.5,1.7 1,6.3zM159.1,962.5l-.9-4.3-5.4,5.4 .9,5.2z"/>
<path color="#f90" d="M164.7,970.6l-1.8-6.8-1.9-.4-1.9-.9-5.4,6.3 1.9,4.4 1.8-3 1.9,4.9z"/>
<path color="#fc0" d="M166.6,976l-1.9-5.4-5.4,4.5 1.9,4.4z"/>
<path color="#fe0" d="M168.4,979.2l-1.8-3.2-5.4,3.5 1.8,3.5z"/>
<path color="#ef0" d="M170.3,987.6l-1.9-8.4-5.4,3.8 1.9,2.1zM179.9,980.6l-2,.5-1.9,5.4-1.9-3.2-1.9,4.1-5.4-2.3 1.9-4.5 1.9,3.9 1.9,1.8 2,2.2z"/>
<path color="#df0" d="M180.7,989.3l-.8-8.7-5.4,7.9 .9,6.5z"/>
<path color="#9e0" d="M183.6,994.2l-2,3.8-.9-8.7-5.3,5.7 .9,6.5 2-5.4zM187.4,999.7l-.9-5.4-5.3,2.9 .9,3.5zM193.4,997.2l-2-3.5-2,5.3-5.3,1.9 2-3.2 1.9,3.5z"/>
<path color="#be0" d="M186.5,994.3l-.9-5.4-2,5.3-5.3,1.9 1.9-2.3 1,3.4z"/>
<path color="#8e0" d="M189.4,999l-2,.7-5.3,1 2,.2zM195.2,1006l-1.8-8.8-5.4,4 1.9,4.8zM200.2,1005.3l-.9-5.4-5.3,5.2 .9,3.2z"/>
<path color="#4e0" d="M196.1,1009.4l-.9-3.4-5.3,0 1,4.8z"/>
<path color="#2e1" d="M197.1,1012.7l-1-3.3-5.2,1.4 .9,4.9zM203,1017.2l-1.9-6.6-5.2,.8 1.9,8z"/>
<path color="#6e0" d="M201.1,1010.6l-.9-5.3-5.3,3 1,3.1z"/>
<path color="#0e7" d="M204.9,1022.4l-1.9-5.2-5.2,2.2 1.9,4.7z"/>
<path color="#0ed" d="M206.9,1024.3l-2-1.9-5.2,1.7 1.9,5.7z"/>
<path color="#09f" d="M210.9,1028.9l-2.2,5.7-1.8-10.3-5.3,5.5 1.9,7.1 2.2-5.6z"/>
<path color="#0cf" d="M212.8,1032.3l-1.9-3.4-5.2,2.4 2,1.8z"/>
<path color="#07f" d="M214.6,1042.3l-1.8-10-5.1,.8 1.8,10z"/>
<path color="#02f" d="M218.6,1049l-1.9-4.9-2.1-1.8-5.1,.8 2,2.1 2,5.6z"/>
<path color="#20f" d="M220.6,1052.9l-2-3.9-5.1,1.8 1.9,4.3z"/>
<path color="#50e" d="M222.4,1061.5l-1.8-8.6-5.2,2.2 1.9,8.8z"/>
<path color="#70a" d="M224.2,1070.3l-1.8-8.8-5.1,2.4 1.9,8.9z"/>
<path color="#708" d="M226.2,1073.3l-2-3-5,2.5 2,3.1z"/>
<path color="#506" d="M236.6,1077.2l-2.1-.7-2.1-.8-2-.7-2.1-.8-2.1-.9-5,2.6 2,.9 2.1,.7 2.1,.8 2.1,.8 2.1,.7z"/>
<path color="#f20" d="M102.6,948.3l-1.6-.5-5.6,4.7 1.6-.6zM139.9,958.3l-.9-6.3-5.6-.3 1,8.4zM145.4,958.4l-1-5-1.8,3-5.5,4.4 1.8-4.6 .9,4.1z"/>
<path color="#f40" d="M104.4,954.4l-1.8-6.1-5.6,3.6 1.8,5.2zM130.1,956.4l-.6-6.4-5.6,5.2 .7,10zM146.3,963.3l-.9-4.9-5.6,1.9 1,4zM152.8,963.6l-1-5.2-5.5,4.5 .9,6.1z"/>
<path color="#f00" d="M117,950.1l-1-8.5-1.8-5.3-1.6,5.1-.8,4.1-5.6,6.5 .8-2.9 1.6-7.4 1.8,3.6 1,8.8zM129.5,950l-.7-6.5-.7-6.6-1.8-3.3-.8,3.7-.8,3.6-.9,2.1-.8,2-1.7,3.6-5.7,0 1.8,0 .9,1.6 .9,1.5 .7-8 .8-8.2 1.8-.6 .7,10.2 .7,10.1z"/>
<path color="#f60" d="M131.9,957.6l-1.8-1.2-5.5,8.8 1.7-2.2zM142.6,956.4l-1.7,8.2-1-6.3-5.5,1.8 .9,8.3 1.8-7.6zM148.2,965.5l-1.9-2.2-5.5,1 1.8,4.6zM151.8,958.4l-.6,6.4-5.5,3.5 .6-5.4z"/>
<path color="#fa0" d="M149.1,971.6l-.9-6.1-5.6,3.4 1,5z"/>
<path color="#f90" d="M151.2,964.8l-.6,6.5-5.5,2.3 .6-5.3zM153.7,968.8l-.9-5.2-5.6,5.4 1,6.2z"/>
<path color="#fc0" d="M159.3,975.1l-1.9-4.9-1.8,3-1.9-4.4-5.5,6.4 1.9,7.8 1.8-6.3 1.9,3z"/>
<path color="#fe0" d="M161.2,979.5l-1.9-4.4-5.5,4.6 1.9,3.3zM170.6,984.5l-1.9-3.9-1.9,4.5-5.5-2.3 2-4.9 1.9,4.6z"/>
<path color="#ef0" d="M166.8,985.1l-1.9,0-1.9-2.1-1.8-3.5-5.5,3.5 1.8,3.9 1.9-4.4 1.9,.3zM172.5,986.3l-1.9-1.8-5.4-2 1.9,9z"/>
<path color="#df0" d="M174.5,988.5l-2-2.2-5.4,5.2 1.9,4.9z"/>
<path color="#be0" d="M175.4,995l-.9-6.5-5.5,7.9 .9,4.3zM180.2,993.8l-1.9,2.3-5.5,2 2,.6z"/>
<path color="#8e0" d="M178.3,996.1l-2,5.4-.9-6.5-5.5,5.7 1,4.4 1.9-7zM184.1,1000.9l-2-.2-5.4,.9 2,1.2zM189.9,1006l-1.9-4.8-5.4,4.1 2,.7z"/>
<path color="#9e0" d="M182.1,1000.7l-.9-3.5-1-3.4-5.4,4.9 1,1.5 .9,1.4zM188,1001.2l-1.9-3.5-2,3.2-5.4,1.9 2-1 1.9,3.5z"/>
<path color="#6e0" d="M190.9,1010.8l-1-4.8-5.3,0 .9,6.3zM195.9,1011.4l-1-3.1-.9-3.2-1.1,5.3-5.4,4.1 1-4.2 1,1 1,1z"/>
<path color="#2e1" d="M192.9,1010.4l-1.1,5.3-.9-4.9-5.4,1.5 1,6.4 1-4.2zM197.8,1019.4l-1.9-8-5.4,.9 1.9,9.4z"/>
<path color="#0e7" d="M199.7,1024.1l-1.9-4.7-5.4,2.3 2,4.1z"/>
<path color="#0ed" d="M201.6,1029.8l-1.9-5.7-5.3,1.7 1.9,9.6z"/>
<path color="#09f" d="M205.7,1031.3l-2.2,5.6-1.9-7.1-5.3,5.6 1.9,3.9 2.2-5.6zM209.5,1043.1l-1.8-10-5.3,.7 1.9,10.1z"/>
<path color="#0cf" d="M207.7,1033.1l-2-1.8-5.3,2.4 2,.1z"/>
<path color="#05f" d="M211.5,1045.2l-2-2.1-5.2,.8 2,2.5z"/>
<path color="#02f" d="M213.5,1050.8l-2-5.6-5.2,1.2 2,6.1z"/>
<path color="#20f" d="M215.4,1055.1l-1.9-4.3-5.2,1.7 1.9,4.8z"/>
<path color="#50e" d="M217.3,1063.9l-1.9-8.8-5.2,2.2 1.9,9z"/>
<path color="#70a" d="M219.2,1072.8l-1.9-8.9-5.2,2.4 1.9,9.1z"/>
<path color="#708" d="M221.2,1075.9l-2-3.1-5.2,2.6 2,3.1z"/>
<path color="#506" d="M231.6,1079.8l-2.1-.7-2.1-.8-2.1-.8-2.1-.7-2-.9-5.2,2.6 2.1,.9 2.1,.8 2,.7 2.1,.8 2.2,.8z"/>
<path fill="none" stroke="#8c8c8c" stroke-width=".4" stroke-opacity=".7" d="M216.7,1044.1L206.3,1046.4M197.1,1012.7L186.5,1018.7M177.9,981.1L167.1,991.5M159.1,962.5L148.2,975.2M140.9,951.9L130,969.7M123.5,954.3L112.4,962.9"/>
<path fill="none" stroke="#4a4a3a" stroke-width=".45" stroke-opacity=".8" d="M226.5,1082.5l-2.2-.8-2.1-.8-2-.7-2.1-.8-2.1-.9-2-3.1-1.9-9.1-1.9-9-1.9-4.8-2-6.1-2-2.5-1.9-10.1-2-.1-2.2,5.6-1.9-3.9-1.9-9.6-2-4.1-1.9-9.4-2-2-2,8.4-1.9-12.7-2-.7-1.9-3.5-2,1-2-1.2-1.9-2.9-2-.6-1.9,7-1.9-8.7-1.9-4.9-1.9-9-1.9-4.6-2,4.9-1.9-.3-1.9,4.4-1.8-3.9-1.9-3.3-1.9-3-1.8,6.3-1.9-7.8-1.9-12.3-1.8,16-1.9-10-1.8-4.6-1.9-8.1-1.8,4.6-1.8,7.6-1.9-16.7-1.7,10.7-1.7,7.3-2-14.4-1.7,7.7-1.7,2.2-2.1-30.3-1.8,.6-1.5,16.2-1.8-3.1-1.8,0-1.6,8.1-1.6,6.2-2-17.6-1.8-3.6-1.6,7.4-1.6,5.9-1.7-.8-1.4,13.4-1.7-5.2-1.8-5.3-1.8-5.2-1.6,.6"/>
<path color="#f40" d="M97,951.9l-1.6,.6-5.8,.1 1.7,2.6zM139.8,960.3l-.9-4.1-1.8,4.6-5.6,7.3 1.8-3 .9,5.2z"/>
<path color="#f60" d="M97.9,954.5l-.9-2.6-5.7,3.3 1,4.5zM124.6,965.2l-.7-10-5.7,5.6 .7,7.8zM129,962.5l-1-7.2-1.7,7.7-5.6,3.6 1.7-1.5 1,4zM135.3,968.4l-.9-8.3-5.7,4.4 1,6.7z"/>
<path color="#f90" d="M98.8,957.1l-.9-2.6-5.6,5.2 .9,4.4zM140.8,964.3l-1-4-5.6,10 1,5.3zM147.2,969l-.9-6.1-.9,8-5.6,5.8 .9-4.5 .9,4.5z"/>
<path color="#f00" d="M110.4,945.3l-1.8-3.6-1.6,7.4-5.7,3.8 1.7-5 1.7,2.3zM123.9,955.2l-.7-10.1-.7-10.2-1.8,.6-.8,8.2-.7,8-1.8-3.1-1.8,0-5.6,5 1.6-3 1.9,6.2 .8-5.1 .8-5.1 1.7-1.4 .7,7.8 .7,7.8z"/>
<path color="#f20" d="M111.4,954.1l-1-8.8-5.7,4.9 1,7.4zM134.4,960.1l-1-8.4-.6,3.6-5.6,7.7 .5-5.3 1,6.8z"/>
<path color="#fa0" d="M142.6,968.9l-1.8-4.6-5.6,11.3 1.8,1.2zM148.2,975.2l-1-6.2-5.6,7.7 1,4.5z"/>
<path color="#fc0" d="M145.4,970.9l-.9,8-1.9-10-5.6,7.9 1.9,4.4 .9-4.5z"/>
<path color="#fe0" d="M153.8,979.7l-1.9-3-1.8,6.3-1.9-7.8-5.6,6 1.9,4 1.8-2.4 1.9,3.7zM165.2,982.5l-1.9-4.6-2,4.9-5.5,7.5 1.9-6.2 1.9,4.4z"/>
<path color="#ef0" d="M161.3,982.8l-1.9-.3-1.9,4.4-1.8-3.9-1.9-3.3-5.6,6.8 1.9,3.1 1.9-.4 1.9,2.4 1.9-1.3zM167.1,991.5l-1.9-9-5.6,6 1.9,6.9z"/>
<path color="#be0" d="M169,996.4l-1.9-4.9-5.6,3.9 1.9,3.3z"/>
<path color="#9e0" d="M180.7,1001.8l-2,1-2-1.2-1.9-2.9-2-.6-1.9,7-1.9-8.7-5.6,2.3 2,5.2 1.9-4.6 2,3.7 1.9-.1 2-.4 2,1.5z"/>
<path color="#8e0" d="M182.6,1005.3l-1-1.8-.9-1.7-5.5,2.2 .9,3.9 1,3.8z"/>
<path color="#6e0" d="M185.5,1012.3l-.9-6.3-2-.7-5.5,6.4 2-1 1,5.2zM190.5,1012.3l-2-2-5.4,2.1 2,2.8z"/>
<path color="#2e1" d="M186.5,1018.7l-1-6.4-5.4,3.6 .9,5.2zM192.4,1021.7l-1.9-9.4-5.4,2.9 1.9,8.2z"/>
<path color="#0e7" d="M194.4,1025.8l-2-4.1-5.4,1.7 2,4.5z"/>
<path color="#0ed" d="M196.3,1035.4l-1.9-9.6-5.4,2.1 1.9,8z"/>
<path color="#0cf" d="M203.4,1038.8l-1-5-2-.1-5.4,1.4 2.1-.9 .9,5.6z"/>
<path color="#07f" d="M204.3,1043.9l-.9-5.1-5.4,1 1,5.7z"/>
<path color="#05f" d="M206.3,1046.4l-2-2.5-5.3,1.6 2,2.5z"/>
<path color="#02f" d="M208.3,1052.5l-2-6.1-5.3,1.6 1.9,6.7z"/>
<path color="#00f" d="M210.2,1057.3l-1.9-4.8-5.4,2.2 2,5z"/>
<path color="#50e" d="M212.1,1066.3l-1.9-9-5.3,2.4 1.9,9.1z"/>
<path color="#70a" d="M214,1075.4l-1.9-9.1-5.3,2.5 1.9,9.2z"/>
<path color="#708" d="M216,1078.5l-2-3.1-5.3,2.6 2.1,3.2z"/>
<path color="#506" d="M226.5,1082.5l-2.2-.8-2.1-.8-2-.7-2.1-.8-2.1-.9-5.2,2.7 2,.8 2.1,.8 2.1,.8 2.1,.8 2.1,.8z"/>
<path color="#f40" d="M91.3,955.2l-1.7-2.6-5.9,.2 1.8,5.8zM105.7,957.6l-1-7.4-5.7,5 .9,6zM118.2,960.8l-.7-7.8-5.7,8 .7,5.5zM128.7,964.5l-1-6.8-.5,5.3-5.7,7.8 .5-7 1,5.1z"/>
<path color="#f60" d="M92.3,959.7l-1-4.5-5.8,3.4 1,6.3zM106.7,965l-1-7.4-5.8,3.6 1,5.9z"/>
<path color="#fa0" d="M93.2,964.1l-.9-4.4-5.8,5.2 1,6.3zM123.4,969.1l-1-4-5.6,9.9 .9,.8zM131.5,968.1l-1.8,3.1-5.7,2.8 1.8,1.5zM134.2,970.3l-.9-5.2-5.7,9 1,6.4z"/>
<path color="#f00" d="M104.7,950.2l-1.7-2.3-5.8,6.4 1.8,.9zM117.5,953l-.7-7.8-1.7,1.4-.8,5.1-5.7,8.2 .8-2 1.8-2.4 .6,5.5z"/>
<path color="#f20" d="M114.3,951.7l-.8,5.1-1.9-6.2-1.6,3-5.8,5 1.6-6 2,9.3 .8-2z"/>
<path color="#f90" d="M118.9,968.6l-.7-7.8-5.7,5.7 .7,5.5zM122.4,965.1l-1.7,1.5-5.8,3.6 1.9,4.8zM129.7,971.2l-1-6.7-5.7,4.4 1,5.1zM133.3,965.1l-1.8,3-5.7,7.4 1.8-1.4z"/>
<path color="#fc0" d="M135.2,975.6l-1-5.3-5.6,10.2 .9,6.4zM141.6,976.7l-.9-4.5-.9,4.5-5.7,5.8 .9-.9 1,2.8z"/>
<path color="#fe0" d="M139.8,976.7l-.9,4.5-1.9-4.4-1.8-1.2-5.7,11.3 1.9-2.1 1.8-1.4 .9-.9zM142.6,981.2l-1-4.5-5.6,7.7 .9,2.8z"/>
<path color="#ef0" d="M148.2,986.5l-1.9-3.7-1.8,2.4-1.9-4-5.7,6 1.9,.2 1.8,1.7 1.9,4.2zM159.6,988.5l-1.9-4.4-1.9,6.2-5.7,7.7 1.9-7.6 2,4.1z"/>
<path color="#df0" d="M153.9,991.6l-1.9-2.4-1.9,.4-1.9-3.1-5.7,6.8 1.9,3 1.9-4.7 1.9,9.2zM161.5,995.4l-1.9-6.9-5.6,6 1.9,4.8z"/>
<path color="#be0" d="M155.8,990.3l-1.9,1.3-5.7,9.2 1.9-2.8zM163.4,998.7l-1.9-3.3-5.6,3.9 1.9,1.7z"/>
<path color="#9e0" d="M175.2,1004l-2-1.5-2,.4-1.9,.1-2-3.7-1.9,4.6-2-5.2-5.6,2.3 2,1.7 1.9-2.3 2,7 1.9-3.2 2-2 2,4.1z"/>
<path color="#8e0" d="M176.1,1007.9l-.9-3.9-5.6,2.3 .9,6z"/>
<path color="#6e0" d="M177.1,1011.7l-1-3.8-5.6,4.4 1,6z"/>
<path color="#4e0" d="M180.1,1015.9l-1-5.2-2,1-5.6,6.6 2-2.7 1,4zM185.1,1015.2l-2-2.8-2.1,8.7-5.5,2.5 2-9 2,3.5z"/>
<path color="#2e1" d="M181,1021.1l-.9-5.2-5.6,3.7 1,4zM187,1023.4l-1.9-8.2-5.6,2.9 2,7.1z"/>
<path color="#0e7" d="M189,1027.9l-2-4.5-5.5,1.8 2,4.8z"/>
<path color="#0ed" d="M190.9,1035.9l-1.9-8-5.5,2.1 2,6.3zM197.1,1034.2l-2.1,.9-5.5,1.4 2.1-2z"/>
<path color="#0cf" d="M195,1035.1l-2.1,3.1-2-2.3-5.4,.4 2,.7 2-.5zM198,1039.8l-.9-5.6-5.5,.3 1,6.3z"/>
<path color="#07f" d="M199,1045.5l-1-5.7-5.4,1 .9,6.3z"/>
<path color="#05f" d="M201,1048l-2-2.5-5.5,1.6 2.1,2.4z"/>
<path color="#02f" d="M202.9,1054.7l-1.9-6.7-5.4,1.5 1.9,7.4z"/>
<path color="#00f" d="M204.9,1059.7l-2-5-5.4,2.2 2,5.1z"/>
<path color="#50e" d="M206.8,1068.8l-1.9-9.1-5.4,2.3 2,9.3z"/>
<path color="#70a" d="M208.7,1078l-1.9-9.2-5.3,2.5 1.9,9.4z"/>
<path color="#708" d="M210.8,1081.2l-2.1-3.2-5.3,2.7 2,3.2z"/>
<path color="#506" d="M221.2,1085.2l-2.1-.8-2.1-.8-2.1-.8-2.1-.8-2-.8-5.4,2.7 2.1,.9 2.1,.8 2.1,.8 2.1,.8 2.1,.8z"/>
<path fill="none" stroke="#8c8c8c" stroke-width=".4" stroke-opacity=".7" d="M206.3,1046.4L195.6,1049.5M186.5,1018.7L175.5,1023.6M167.1,991.5L155.9,999.3M148.2,975.2L136.9,987.2M130,969.7L118.6,976.7M112.4,962.9L100.9,967.1"/>
<path fill="none" stroke="#4a4a3a" stroke-width=".45" stroke-opacity=".8" d="M215.9,1088l-2.1-.8-2.1-.8-2.1-.8-2.1-.8-2.1-.9-2-3.2-1.9-9.4-2-9.3-2-5.1-1.9-7.4-2.1-2.4-1.9-12.6-2.1,2-2,.5-2-.7-2-6.3-2-4.8-2-7.1-2-3.5-2,9-2-8-2,2.7-1.9-12-2-4.1-2,2-1.9,3.2-2-7-1.9,2.3-2-1.7-1.9-1.7-1.9-4.8-2-4.1-1.9,7.6-1.9,2.8-1.9-9.2-1.9,4.7-1.9-3-1.9-4.2-1.8-1.7-1.9-.2-1.9-5.6-1.8,1.8-1.8,1.4-1.9,2.1-1.9-12.8-1.8,1.4-1.8-1.5-2-10.2-1.5,20.7-1.9-7.8-1.8-1.7-1.9-4.8-1.7,1.8-2-16.5-1.8,2.4-1.6,4-2-9.3-1.6,6-1.6,5-1.7,3.5-1.9-11.9-1.8-.9-1.6,2.5-1.5,11.6-1.7-1.9-1.6,1.7-1.4,11.4-1.9-8.4-2-12.6-1.8-5.8"/>
<path color="#f60" d="M85.5,958.6l-1.8-5.8-5.7,8.2 1.8,6.4zM109.4,957.9l-1.6,4-1-4.7-5.8,7.1 1,6.1 1.7-4.7zM122.7,967.2l-.7-3.4-.5,7-5.8,1.9 .5-6.8 .6,5.7z"/>
<path color="#fa0" d="M86.5,964.9l-1-6.3-5.7,8.8 .9,3.3zM114.9,970.2l-.5,.6-.6,.6-.6,.6-5.9-2.9 .6,3.2 .7,3.1 .6,3.2z"/>
<path color="#fc0" d="M87.5,971.2l-1-6.3-5.8,5.8 1,3.4zM116.8,975l-1.9-4.8-5.7,8.4 1.8,2.7zM127.6,974.1l-1.8,1.4-1.8-1.5-.7-3.4-5.8,6.7 .7,5.7 1.9,4 1.8-3.6z"/>
<path color="#f40" d="M99.9,961.2l-.9-6-1.8-.9-1.6,2.5-5.8,7.2 1.6-3.7 1.7,.4 1,5zM112.2,963.8l-1-8.3-1.8,2.4-5.7,7.8 1.7-3.6 .9,3.5z"/>
<path color="#f20" d="M106.8,957.2l-1-4.6-1.6,6-5.8,4.5 1.6-5 1,6.2z"/>
<path color="#f90" d="M113.2,972l-1-8.2-5.9,1.8 1,3.5zM123.3,970.6l-.6-3.4-5.9,4.4 .7,5.7z"/>
<path color="#fe0" d="M128.6,980.5l-1-6.4-5.7,9.3 .9,1.3z"/>
<path color="#ef0" d="M140.6,989.1l-1.8-1.7-1-.1-.9-.1-1.9-5.6-1.8,1.8-.9,.7-.9,.7-1.9,2.1-.9-6.4-5.8,4.2 .9,1.3 1.8-1.8 1,3.5 .9,3.4 1.9-2.7 1.8,3.5 1-2.3 .9-2.4 1.9,4.4z"/>
<path color="#df0" d="M142.5,993.3l-1.9-4.2-5.7,2.5 1.9,4.4zM154,994.5l-2-4.1-.9,3.8-5.8,4.7 1-5.7 1.9,5.8z"/>
<path color="#be0" d="M144.4,996.3l-1.9-3-5.7,2.7 1.9-.6zM148.2,1000.8l-1.9-9.2-5.8,1.2 2,6.4zM155.9,999.3l-1.9-4.8-5.8,4.5 2,5zM160.7,1001.6l-.9,1.1-5.8-2.4 1,2.2z"/>
<path color="#9e0" d="M150.1,998l-.9,1.4-1,1.4-5.7-1.6 .9,2.7 1,2.7zM159.8,1002.7l-2-1.7-1.9-1.7-5.7,4.7 1.9-1.4 1.9-2.3zM163.7,1007.4l-2-7-1,1.2-5.7,.9 1,2.2 2,5.6zM169.6,1006.3l-2-4.1-2,2-5.7,1.8 2-1.6 2,6.1z"/>
<path color="#8e0" d="M170.5,1012.3l-.9-6-5.7,4.2 1,5.4z"/>
<path color="#4e0" d="M173.5,1015.6l-2,2.7-1-6-5.6,3.6 1,5.5 2-2.1zM179.5,1018.1l-2-3.5-5.6,3.8 2,1.5z"/>
<path color="#2e1" d="M177.5,1014.6l-2,9-2-8-5.6,3.7 1.9,7.6 2.1-8.5zM181.5,1025.2l-2-7.1-5.6,1.8 2,7.3z"/>
<path color="#0e2" d="M182.5,1027.6l-1-2.4-5.6,2 1,4z"/>
<path color="#0e7" d="M183.5,1030l-1-2.4-5.6,3.6 1,3.9z"/>
<path color="#0ed" d="M185.5,1036.3l-2-6.3-5.6,5.1 2,2.2zM191.6,1034.5l-2.1,2-5.5,1.5 2.1-.3z"/>
<path color="#0cf" d="M189.5,1036.5l-2,.5-2-.7-5.6,1 2,2.5 2.1-1.8zM192.6,1040.8l-1-6.3-5.5,3.2 .9,6.2z"/>
<path color="#09f" d="M193.5,1047.1l-.9-6.3-5.6,3.1 1,6.3z"/>
<path color="#05f" d="M195.6,1049.5l-2.1-2.4-5.5,3.1 2,4z"/>
<path color="#02f" d="M197.5,1056.9l-1.9-7.4-5.6,4.7 2,7z"/>
<path color="#20f" d="M199.5,1062l-2-5.1-5.5,4.3 2,6.6z"/>
<path color="#70d" d="M201.5,1071.3l-2-9.3-5.5,5.8 2,8.7z"/>
<path color="#70a" d="M203.4,1080.7l-1.9-9.4-5.5,5.2 1.9,7.5z"/>
<path color="#708" d="M205.4,1083.9l-2-3.2-5.5,3.3 2.1,2.7z"/>
<path color="#506" d="M215.9,1088l-2.1-.8-2.1-.8-2.1-.8-2.1-.8-2.1-.9-5.4,2.8 2.1,.8 2.1,.8 2.1,.9 2.1,.8 2.1,.8z"/>
<path color="#fa0" d="M79.8,967.4l-1.8-6.4-5.8,8.3 1.8,7zM95.1,970.8l-1-5.1-5.9,4.6 1,4.2zM103.7,965.7l-1.7,4.7-1-6.1-5.9,7.1 1.1,7.7 1.6-5.4zM108.6,975.4l-.7-3.1-6,.9 .8,7zM117.5,977.3l-.7-5.7-5.9,4.5 .8,8.1z"/>
<path color="#fe0" d="M81.7,974.1l-1-3.4-.9-3.3-5.8,8.9 .9,.3 .8,.4zM86.6,972.9l-1.7-1.3-5.9,3.4 1.8,4.4zM109.2,978.6l-.6-3.2-5.9,4.8 .7,6.9zM118.2,983l-.7-5.7-5.8,6.9 .7,8z"/>
<path color="#ef0" d="M82.7,980l-1-5.9-6,2.9 1.1,7.6zM123.7,986l-.9-1.3-.9-1.3-5.8,9.5 .8-4 .9-3.9zM126.5,987.7l-1-3.5-5.9-.5 1,7.6zM134.9,991.6l-1.9-4.4-.9,2.4-5.9,2.3 .9-5 1.9,7.3z"/>
<path color="#f60" d="M94.1,965.7l-1-5-1.7-.4-5.9,6.2 1.7-.3 1,4.1zM101,964.3l-1-6.2-5.9,5.7 1,7.6zM107.3,969.1l-1-3.5-.9-3.5-1.7,3.6-5.9,8 1.7-5 .8-1.2 .9-1.3zM116.8,971.6l-.6-5.7-.5,6.8-6,1.9 .5-6.6 .7,8.1z"/>
<path color="#f90" d="M107.9,972.3l-.6-3.2-6.1-2.9 .7,7z"/>
<path color="#df0" d="M121.9,983.4l-1.8,3.6-1.9-4-5.8,9.2 1.9,6.5 1.8-5.8zM132.1,989.6l-1,2.3-1.8-3.5-1.9,2.7-.9-3.4-5.9,3.6 1,7.6 1.8-3.6 1.9,1.5 .9-4.9zM142.5,999.2l-2-6.4-1.8,2.6-1.9,.6-1.9-4.4-5.9,2.6 1.9,4.5 1.9-4.3 1.9-.3 1.9,3.6zM148.2,999l-1.9-5.8-1,5.7-5.8,4.8 .9-7.6 2,7.4z"/>
<path color="#be0" d="M143.4,1001.9l-.9-2.7-5.9-1.5 1,6.8zM155,1002.5l-1-2.2-1.9,2.3-5.8,1.7 1.9-6.4 1,5.6z"/>
<path color="#9e0" d="M152.1,1002.6l-1.9,1.4-2-5-5.8,4.5 2,5.2 1.9-4.4zM156,1004.7l-1-2.2-5.8,1 1,5.6zM163.9,1010.5l-2-6.1-2,1.6-5.8,1.8 2-1.2 2,8.2z"/>
<path color="#8e0" d="M159.9,1006l-1.9,4.3-2-5.6-5.8,4.4 2,4.2 1.9-5.5z"/>
<path color="#6e0" d="M164.9,1015.9l-1-5.4-5.8,4.3 1,4.9z"/>
<path color="#4e0" d="M165.9,1021.4l-1-5.5-5.8,3.8 1,4.8zM173.9,1019.9l-2-1.5-5.8,4 2.1-.6z"/>
<path color="#2e1" d="M171.9,1018.4l-2.1,8.5-1.9-7.6-2,2.1-5.8,3.1 2-1.5 2,7.3 2-7.9zM175.9,1027.2l-2-7.3-5.7,1.9 2,7.5z"/>
<path color="#0e2" d="M176.9,1031.2l-1-4-5.7,2.1 1,5.5z"/>
<path color="#0ed" d="M179.9,1037.3l-2-2.2-1-3.9-5.7,3.6 .9,5.4 2.1-1.9zM186.1,1037.7l-2.1,.3-5.7,1.5 2.1,1.4z"/>
<path color="#0cf" d="M184,1038l-2.1,1.8-2-2.5-5.7,1 2,4.4 2.1-3.2zM187,1043.9l-.9-6.2-5.7,3.2 1,6.2z"/>
<path color="#07f" d="M188,1050.2l-1-6.3-5.6,3.2 .9,6.2z"/>
<path color="#05f" d="M190,1054.2l-2-4-5.7,3.1 2.1,5.7z"/>
<path color="#00f" d="M192,1061.2l-2-7-5.6,4.8 2,6.6z"/>
<path color="#20f" d="M194,1067.8l-2-6.6-5.6,4.4 2,8.1z"/>
<path color="#70d" d="M196,1076.5l-2-8.7-5.6,5.9 2,8z"/>
<path color="#70a" d="M197.9,1084l-1.9-7.5-5.6,5.2 2,5.8z"/>
<path color="#506" d="M210.5,1090.8l-2.1-.8-2.1-.8-2.1-.9-2.1-.8-2.1-.8-2.1-2.7-5.5,3.5 2.1,2 2.1,.9 2.1,.8 2.1,.8 2.1,.8 2.2,.8z"/>
<path fill="none" stroke="#8c8c8c" stroke-width=".4" stroke-opacity=".7" d="M195.6,1049.5L184.4,1059M175.5,1023.6L164.1,1030.3M155.9,999.3L144.4,1008.7M136.9,987.2L125.3,996.8M118.6,976.7L107,992M100.9,967.1L89.2,974.5"/>
<path fill="none" stroke="#4a4a3a" stroke-width=".45" stroke-opacity=".8" d="M205.1,1093.6l-2.2-.8-2.1-.8-2.1-.8-2.1-.8-2.1-.9-2.1-2-2-5.8-2-8-2-8.1-2-6.6-2.1-5.7-1.9-12.4-2.1-1.4-2.1,3.2-2-4.4-2.1,1.9-1.9-10.9-2-7.5-2.1,.6-2,7.9-2-7.3-2,1.5-2-9.7-2-8.2-2,1.2-1.9,5.5-2-4.2-2-11.2-1.9,6.4-1.9,4.4-2-5.2-2-7.4-1.8,15.2-2-13.6-1.9-3.6-1.9,.3-1.9,4.3-1.9-4.5-1.9-7.3-1.8,9.9-1.9-1.5-1.8,3.6-2-15.2-1.8,1.3-1.7,7.9-1.8,5.8-1.9-6.5-2.2-24.2-1.5,19.6-1.7,4.4-1.8-4.4-1.8-.5-2.2-20.9-1.7,2.5-1.7,5-1.6,5.4-2.1-15.3-1.7,3.8-1.4,10-1.8-3.1-2-8.3-1.7,.3-1.5,4.8-1.4,13.8-1.8-5.7-1.8-4.4-1.2,17.2-2.1-15.2-1.7-.7-1.8-7"/>
<path color="#fe0" d="M74,976.3l-1.8-7-6,6.1 1.8,4.9zM111.7,984.2l-.8-8.1-5.9,7.4 .7,6.6z"/>
<path color="#ef0" d="M75.7,977l-1.7-.7-6,4 1.7,.1zM80.8,979.4l-1.8-4.4-.6,8.6-6,2 .6-6 1.9,6.6zM103.4,987.1l-.7-6.9-6,4.8 .7,4.4zM120.6,991.3l-1-7.6-6,1.5 1,8.8zM129,994.2l-1.9-7.3-.9,5-6,3.7 .9-1.5 1.9,2.4z"/>
<path color="#df0" d="M76.8,984.6l-1.1-7.6-6,3.4 1,5.6zM112.4,992.2l-.7-8-6,5.9 .8,6.6zM130.9,998.7l-1.9-4.5-6,2.3 2,4.8zM136.6,997.7l-1.9-3.6-1.9,.3-6,5.3 1.9-1.5 2,4.4zM148.2,997.9l-1,3.2-5.9,1.7 1,1.5z"/>
<path color="#fa0" d="M89.2,974.5l-2-8.3-1.7,.3-1.5,4.8-6,6.8 1.7-1.3 1.7,.3 1.7,.3zM101.9,973.2l-.7-7-5.9,9.8 .7,4.5zM110.9,976.1l-.7-8.1-.7,9.9-6,5.1 .8-6 .7,6.5z"/>
<path color="#fc0" d="M91.7,972.6l-.7,5-1.8-3.1-6.1,2.9 1.8,2.3 .8-1.2zM96.2,979.1l-1.1-7.7-5.9,7.7 1,5.6zM102.7,980.2l-.8-7-5.9,7.3 .7,4.5z"/>
<path color="#f90" d="M95.1,971.4l-1-7.6-1.7,3.8-5.8,9.6 1.6-3.6 1,5.5zM101.2,966.2l-1.7,2.5-6,7.1 1.8,.2z"/>
<path color="#be0" d="M121.6,998.9l-1-7.6-6,2.7 1.1,8.7zM142.4,1003.5l-2-7.4-.9,7.6-5.9,3.7 .9-7.1 2,5.2zM149.2,1003.5l-1-5.6-5.9,6.4 1,6.8z"/>
<path color="#9e0" d="M137.6,1004.5l-1-6.8-5.9,4.9 1,5.9zM157.1,1010.7l-1-4.1-2,1.2-5.9,2.8 2,.8 1,5.1z"/>
<path color="#8e0" d="M150.2,1009.1l-1-5.6-5.9,7.6 1,6.9z"/>
<path color="#6e0" d="M152.2,1013.3l-2-4.2-5.9,8.9 2-2.6zM158.1,1014.8l-1-4.1-5.9,5.8 1,5.1z"/>
<path color="#4e0" d="M160.1,1024.5l-2-9.7-5.9,6.8 2,2zM168.2,1021.8l-2.1,.6-5.8,0 2,4z"/>
<path color="#2e1" d="M166.1,1022.4l-2,7.9-2-7.3-2,1.5-5.9-.9 2,1.8 2.1,3.2 2-6.2zM170.2,1029.3l-2-7.5-5.9,4.6 2,5.4z"/>
<path color="#0e7" d="M171.2,1034.8l-1-5.5-5.9,2.5 1,5.8z"/>
<path color="#0ed" d="M174.2,1038.3l-2.1,1.9-.9-5.4-5.9,2.8 1,5.7 2.1-2.7zM180.4,1040.9l-2.1-1.4-5.8,5.5 2.1-.9z"/>
<path color="#0cf" d="M178.3,1039.5l-2.1,3.2-2-4.4-5.8,2.3 2,4.3 2.1,.1zM181.4,1047.1l-1-6.2-5.8,3.2 1,6.5z"/>
<path color="#07f" d="M182.3,1053.3l-.9-6.2-5.8,3.5 1,6.4z"/>
<path color="#05f" d="M184.4,1059l-2.1-5.7-5.7,3.7 2,5.7z"/>
<path color="#00f" d="M186.4,1065.6l-2-6.6-5.8,3.7 2,7.7z"/>
<path color="#50e" d="M188.4,1073.7l-2-8.1-5.8,4.8 2.1,9.1z"/>
<path color="#70c" d="M190.4,1081.7l-2-8-5.7,5.8 2,7.5z"/>
<path color="#708" d="M192.4,1087.5l-2-5.8-5.7,5.3 2,3.9z"/>
<path color="#506" d="M205.1,1093.6l-2.2-.8-2.1-.8-2.1-.8-2.1-.8-2.1-.9-2.1-2-5.7,3.4 2.1,1.5 2.1,.9 2.1,.8 2.2,.8 2.1,.8 2.2,.8z"/>
<path color="#ef0" d="M69.7,980.4l-1.7-.1-1.8-4.9-6,6.2 1.8,2.8 1.6-.4zM81.4,977.1l-1.7-.3-5.9,10.4 1.7,.9zM91.9,982.5l-1.7,2.2-1-5.6-6,7.9 1,3.4 1.8,.9zM97.4,989.4l-.7-4.4-6.1,4.8 .7,2zM105.7,990.1l-.7-6.6-6,7.5 .7,5.1zM114.6,994l-1-8.8-6.2,1.6 1.1,9.9z"/>
<path color="#df0" d="M70.7,986l-1-5.6-6.1,3.6 .9,3.4zM74.9,986.2l-1.9-6.6-.6,6-6.2,2 .7-3.3 2,8.8zM102.7,989l-1.7,4-1.8-3.3-1.8-.3-6.1,2.4 1.7,.1 1.9,2.1 1.7-3.7zM123,996.5l-1.9-2.4-.9,1.5-.9,1.4-6.1,.3 .9,2 1,2 1.9-2.4zM141.3,1002.8l-1-1.5-.9,4-6.1-1.3 .9-5.7 1.1,6.2z"/>
<path color="#be0" d="M72.4,985.6l-.7,5.9-1-5.5-6.2,1.4 1,3.4 .7-3.2zM106.5,996.7l-.8-6.6-6,6 .7,5.1zM115.7,1002.7l-1.1-8.7-6.1,2.7 1.1,9.9zM130.7,1002.6l-2-4.4-1.9,1.5-1.8,1.6-2-4.8-6,2.4 1.9,5.1 1.9,1.1 1.9-2.8 1.9,5.2zM136.5,1005.5l-2-5.2-.9,7.1-6,3.7 .9-6.5 1.9,2.9zM142.3,1004.3l-1-1.5-6,1.7 1,6.3z"/>
<path color="#fe0" d="M79.7,976.8l-1.7,1.3-6,6.9 1.8,2.2zM86.6,977.2l-.9,1.3-.8,1.2-1.8-2.3-1.7-.3-5.9,11 1.5-7.6 1.8,1.4 .9,2.5 .9,2.5zM89.2,979.1l-1-5.5-5.9,9.9 .9,3.5zM96.7,985l-.7-4.5-.7-4.5-6,9.8 .7,2 .6,2z"/>
<path color="#fc0" d="M95.3,976l-1.8-.2-6,7.2 1.8,2.8zM105,983.5l-.7-6.5-.8,6-6.1,5.2 .9-2.2 .7,5z"/>
<path color="#9e0" d="M131.7,1008.5l-1-5.9-6.1,4.9 1.1,5zM143.3,1011.1l-1-6.8-6,6.5 1,8.1zM150.2,1011.4l-2-.8-6,2.9 2,2.8z"/>
<path color="#6e0" d="M144.3,1018l-1-6.9-6,7.8 1.1,8z"/>
<path color="#8e0" d="M151.2,1016.5l-1-5.1-6,4.9 1.1,6.1z"/>
<path color="#4e0" d="M156.2,1025.4l-2-1.8-2-2-1-5.1-5.9,5.9 1,6.2 2-5.9 2,5.1zM162.3,1026.4l-2-4-2,6.2-6-1.7 2-4.5 2.1,8.7z"/>
<path color="#2e1" d="M158.3,1028.6l-2.1-3.2-5.9,2.4 2-.9zM164.3,1031.8l-2-5.4-5.9,4.7 2,3.2z"/>
<path color="#0e7" d="M165.3,1037.6l-1-5.8-5.9,2.5 1,6.1z"/>
<path color="#0ed" d="M166.3,1043.3l-1-5.7-5.9,2.8 1.1,6.1z"/>
<path color="#0cf" d="M175.6,1050.6l-1-6.5-2.1,.9-2.1-.1-2-4.3-2.1,2.7-5.8,3.2 2-3.6 2.1,4.3 2,3.3 2.1-3.1 1,6.7z"/>
<path color="#07f" d="M176.6,1057l-1-6.4-5.9,3.5 1,6.7z"/>
<path color="#02f" d="M178.6,1062.7l-2-5.7-5.9,3.8 2.1,5.7z"/>
<path color="#20f" d="M180.6,1070.4l-2-7.7-5.8,3.8 2,8.7z"/>
<path color="#70d" d="M182.7,1079.5l-2.1-9.1-5.8,4.8 2,10.3z"/>
<path color="#70a" d="M184.7,1087l-2-7.5-5.9,6 2.1,6.8z"/>
<path color="#708" d="M186.7,1090.9l-2-3.9-5.8,5.3 2.1,2.2z"/>
<path color="#506" d="M199.5,1096.5l-2.2-.8-2.1-.8-2.2-.8-2.1-.8-2.1-.9-2.1-1.5-5.7,3.6 2.1,.9 2.1,.8 2.1,.8 2.2,.9 2.1,.8 2.2,.8z"/>
<path fill="none" stroke="#8c8c8c" stroke-width=".4" stroke-opacity=".7" d="M184.4,1059L172.8,1066.5M164.1,1030.3L152.3,1026.9M144.4,1008.7L132.4,1009.6M125.3,996.8L113.2,997.3M107,992L94.9,994M89.2,974.5L77,980.5"/>
<path fill="none" stroke="#4a4a3a" stroke-width=".45" stroke-opacity=".8" d="M193.8,1099.5l-2.2-.8-2.1-.8-2.2-.9-2.1-.8-2.1-.8-2.1-.9-2.1-2.2-2.1-6.8-2-10.3-2-8.7-2.1-5.7-2-13.4-2.1,3.1-2-3.3-2.1-4.3-2,3.6-2.1-12.2-2-3.2-2.1-8.7-2,4.5-2,.9-2-5.1-2,5.9-2.1-12.3-2-2.8-1.9,4.2-1.9,9.2-2.1-16.1-2.1-12.5-1.8,11.3-2-2.1-1.9-2.9-1.8,12.9-2.1-10-1.9-5.2-1.9,2.8-1.9-1.1-1.9-5.1-1.9,2.4-1.9-4-1.7,13-1.9-3.7-2.2-19.8-1.7,6.2-1.6,13.6-1.9-5.7-1.8,.3-2.1-15.2-1.7,4.3-1.7,3.7-1.9-2.1-1.7-.1-2-6-1.8-2.8-1.5,8.3-1.8-.9-1.9-6.9-1.7,3.4-1.8-5-1.8-1.4-1.5,7.6-1.7-.9-1.8-2.2-1.4,8-1.7,.1-2-8.8-1.4,6.5-1.9-6.8-1.6,.4-1.8-2.8"/>
<path color="#df0" d="M61.1,983l-.9-1.4-6.1,5.3 .7-2.2zM66.9,984.3l-1.4,6.5-1.9-6.8-6.3,.1 1.8,4.6 1.6-2.2zM86,991.3l-1.8-.9-1.9-6.9-6.1,10 1.8,.5 1.8,1.4zM91.3,991.8l-2-6-6,9.1 1.9,5.6zM96.6,990.3l-1.7,3.7-1.9-2.1-.9-.1-6.1,5.7 .8-3.1 1.9,4 1.7-3.2zM115.1,1001.3l-1.9-4-6.2,2 1.9,4.5zM135.3,1004.5l-1.1-6.2-.9,5.7-6.1,5.4 .9-3.7 1.1,7.5z"/>
<path color="#ef0" d="M63.6,984l-1.6,.4-.9-1.4-6.3,1.7 .7-2.2 1.8,1.6zM82.3,983.5l-.9,1.7-.8,1.7-1.8-5-6.3,3.2 1.9,3.7 .9,2.3 .9,2.4zM89.3,985.8l-1.8-2.8-1.5,8.3-6.2,4.1 1.6-5.3 1.9,4.8zM99.3,993.6l-1-7.6-1.7,4.3-6.2,4.9 1.8-2 .9,2.9zM108.5,996.7l-1.1-9.9-1.7,6.2-6.1,6.6 1.7-5 1.1,7.3z"/>
<path color="#be0" d="M68.9,993.1l-2-8.8-6.2,2.2 2,9.1zM92.1,991.8l-.8,0-6.1,8.7 .8-3zM102.2,1000.9l-1.8,.3-1.1-7.6-6.2,2.5 1,2.8 1.9,2.4zM118.9,1004l-1.9-5.1-1.9,2.4-6.2,2.5 1.9-1.7 2,6.5zM122.7,1002.3l-1.9,2.8-6.2,.9 2,2.8z"/>
<path color="#fe0" d="M78.8,981.9l-1.8-1.4-6.2,4.7 1.7-.1z"/>
<path color="#9e0" d="M109.6,1006.6l-1.1-9.9-6.1,5.2 1.1,7.3zM120.8,1005.1l-1.9-1.1-6.1,4.6 1.8-2.6zM124.6,1007.5l-1.9-5.2-6.1,6.5 1.9,.5zM132.4,1009.6l-2-2.1-1.9-2.9-.9,6.5-6.1,7 .9-6.4 1.9-1 2,2.4zM136.3,1010.8l-1-6.3-6.1,8.7 1,7.5z"/>
<path color="#8e0" d="M125.7,1012.5l-1.1-5-6.1,1.8 1,7.7zM144.2,1016.3l-2-2.8-6.1,6 2.1,3.3z"/>
<path color="#6e0" d="M137.3,1018.9l-1-8.1-6.1,9.9 1.1,6.3zM145.3,1022.4l-1.1-6.1-6,6.5 1,5z"/>
<path color="#2e1" d="M147.3,1025.6l-1,3-1-6.2-6.1,5.4 1,5 1-4.2zM152.3,1026.9l-2,.9-6.1,2.1 2,.5z"/>
<path color="#4e0" d="M150.3,1027.8l-2-5.1-1,2.9-6.1,3 1-4.1 2,5.4zM156.4,1031.1l-2.1-8.7-2,4.5-6.1,3.5 2.1-4.5 2,7.2z"/>
<path color="#0e2" d="M158.4,1034.3l-2-3.2-6.1,2 2.1,6z"/>
<path color="#0e7" d="M159.4,1040.4l-1-6.1-6,4.8 1,4.2z"/>
<path color="#0ed" d="M160.5,1046.5l-1.1-6.1-6,2.9 1,4.1z"/>
<path color="#0cf" d="M168.7,1047.4l-2.1,3.1-2-3.3-2.1-4.3-2,3.6-6.1,.9 2.1-1 2.1,3 2,5.2 2.1-2.7z"/>
<path color="#09f" d="M169.7,1054.1l-1-6.7-6,4.5 1.1,6.1z"/>
<path color="#05f" d="M170.7,1060.8l-1-6.7-5.9,3.9 1,6.2z"/>
<path color="#02f" d="M172.8,1066.5l-2.1-5.7-5.9,3.4 2.1,5.5z"/>
<path color="#20f" d="M174.8,1075.2l-2-8.7-5.9,3.2 2,8.4z"/>
<path color="#70d" d="M176.8,1085.5l-2-10.3-5.9,2.9 2.1,10.2z"/>
<path color="#70a" d="M178.9,1092.3l-2.1-6.8-5.8,2.8 2,7z"/>
<path color="#506" d="M193.8,1099.5l-2.2-.8-2.1-.8-2.2-.9-2.1-.8-2.1-.8-2.1-.9-2.1-2.2-5.9,3 2.1,2.1 2.1,.9 2.2,.9 2.1,.8 2.1,.9 2.2,.8 2.2,.8z"/>
<path color="#ef0" d="M59.1,988.7l-1.8-4.6-1.8-1.6-.7,2.2-6.4,1.7 .6-5.9 1.8,3.6 1.8,2.5zM74.4,988.8l-1.9-3.7-1.7,.1-1.6,2.7-6.5-.1 1.8,2.2 1.7-1.7 1.8,2.5z"/>
<path color="#df0" d="M60.7,986.5l-1.6,2.2-6.5-2.1 1.7,2.1zM69.2,987.9l-1.6,2.6-1.9-5.3-6.4,.3 2,8.3 1.4-6zM75.3,991.1l-.9-2.3-6.4,2 1.1,6.4zM94.1,998.9l-1-2.8-.9-2.9-1.8,2-6.2,5 1.8,.4 .8-2 .9-2.1zM108.9,1003.8l-1.9-4.5-6.3,2.1 1.9,5z"/>
<path color="#be0" d="M62.7,995.6l-2-9.1-6.4,2.2 2,9.4zM79.8,995.4l-1.8-1.4-1.8-.5-.9-2.4-6.2,6.1 1.1,6.3 1.5-6 1.8,2zM90.4,995.2l-1.7,3.2-1.9-4-.8,3.1-6.2,5.7 .7-6.2 1.9,6 1.8-2.8zM96,1001.3l-1.9-2.4-6.4-2.4 1.9,5.3zM102.4,1001.9l-1.1-7.3-6.2,7.9 1.1,4.7zM107,999.3l-.8,7.9-6.3,3.4 .8-9.2z"/>
<path color="#9e0" d="M103.5,1009.2l-1.1-7.3-6.2,5.3 1,4.7zM118.5,1009.3l-1.9-.5-2-2.8-1.8,2.6-2-6.5-6.3,3.4 2,7.7 1.8-6.4 2.1,8.6 1.8-4.2zM127.2,1009.4l-.9,3.7-2-2.4-1.9,1-6.2,7.2 1.8-5 2,2.8 1-1.7zM129.2,1013.2l-1.1-7.5-6.2,7.6 1.1,8.7z"/>
<path color="#8e0" d="M119.5,1017l-1-7.7-6.3,1.9 1.1,10.3z"/>
<path color="#4e0" d="M120.6,1024.5l-1.1-7.5-6.2,4.5 1.2,10.2zM139.2,1027.8l-1-5-6.2,6.5 1,3.9zM144.2,1029.9l-2-5.4-1,4.1-6.2,3.1 1-5.3 2,5.7zM150.3,1033.1l-2-7.2-2.1,4.5-6.1,3.6 2-4.6 2.1,5.7z"/>
<path color="#6e0" d="M122.4,1011.7l-.9,6.4-6.2,7.2 .9-6.4zM130.2,1020.7l-1-7.5-6.2,8.8 1.1,8.7zM138.2,1022.8l-2.1-3.3-6.1,6 2,3.8z"/>
<path color="#2e1" d="M131.3,1027l-1.1-6.3-6.1,10 1,4.6zM141.2,1028.6l-1,4.2-1-5-6.2,5.4 1.1,3.8 .9-5.3zM146.2,1030.4l-2-.5-6.2,2.2 2.1,1.9z"/>
<path color="#0e2" d="M152.4,1039.1l-2.1-6-6.1,2 2.1,8.9z"/>
<path color="#0e7" d="M153.4,1043.3l-1-4.2-6.1,4.9 1,2.2z"/>
<path color="#0ed" d="M156.5,1046.4l-2.1,1-1-4.1-6.1,2.9 1,2.1 2.1,1.5z"/>
<path color="#0cf" d="M158.6,1049.4l-2.1-3-6.1,3.4 2.1,1.9z"/>
<path color="#09f" d="M163.8,1058l-1.1-6.1-2.1,2.7-2-5.2-6.1,2.3 2.1,7 2-2.2 1.1,5.5z"/>
<path color="#05f" d="M164.8,1064.2l-1-6.2-6.1,4 1,5.6z"/>
<path color="#02f" d="M166.9,1069.7l-2.1-5.5-6.1,3.4 2.1,5.3z"/>
<path color="#20f" d="M168.9,1078.1l-2-8.4-6.1,3.2 2.1,8.2z"/>
<path color="#70d" d="M171,1088.3l-2.1-10.2-6,3 2.1,10.1z"/>
<path color="#70a" d="M173,1095.3l-2-7-6,2.9 2.1,7z"/>
<path color="#506" d="M188,1102.5l-2.2-.8-2.2-.8-2.1-.9-2.1-.8-2.2-.9-2.1-.9-2.1-2.1-5.9,2.9 2.1,2.2 2.1,.9 2.1,.9 2.2,.8 2.1,.9 2.2,.9 2.1,.8z"/>
<path fill="none" stroke="#8c8c8c" stroke-width=".4" stroke-opacity=".7" d="M172.8,1066.5L160.8,1072.9M152.3,1026.9L140.1,1034M132.4,1009.6L120,1016.7M113.2,997.3L100.7,1001.4M94.9,994L82.4,1003M77,980.5L64.5,990"/>
<path fill="none" stroke="#4a4a3a" stroke-width=".45" stroke-opacity=".8" d="M182,1105.6l-2.1-.8-2.2-.9-2.1-.9-2.2-.8-2.1-.9-2.1-.9-2.1-2.2-2.1-7-2.1-10.1-2.1-8.2-2.1-5.3-2.1-11.1-2,2.2-2.1-7-2.1-1.9-2.1-1.5-2-4.3-2.1-8.9-2.1-5.7-2,4.6-2.1-1.9-2-5.7-1.9,10.6-2.1-7.7-2-3.8-2,5.7-1.8,8.6-2.1-9.1-2.2-17.4-1.9,3.4-2-2.8-1.8,5-1.7,12.8-2.3-20.5-1.8,4.2-2.1-8.6-1.8,6.4-2-7.7-1.9,.9-1.9-5-1.5,18.3-2-7.8-2.1-9.4-1.7,3.7-1.7,4.6-2.1-9-1.9-5.3-1.7,4.1-1.8-.4-1.8,2.8-1.9-6-1.4,12.4-1.9-5.3-2-6.7-1.7,2.1-1.8-2-1.5,6-2.2-12.7-1.8-2.5-1.7,1.7-1.8-2.2-1.4,6-2-8.3-1.4,9.7-1.6,2.9-2-9.4-1.7-2.1-1.8-2.5-1.8-3.6-1.2,11.8"/>
<path color="#ef0" d="M50.5,983.5l-.3-.6-.3-.6-.4-.9-.5-.9-4,8.2 .3-1.2 .4-1.1 .4,3.2 .4,3.2zM52.3,986.2l-.3-.4-.3-.4-.3-.5-.3-.4-4,7.7 .1-3.9 .1-3.9 .4,3.5 .4,3.4zM59.3,985.5l-.4,2.4-4.2,3.4 .5,1.3zM63,988.1l-.3-.3-.7,3-4.2,2.8 .6-4.8 .5,4.7zM66.6,988.9l-.4-.6-.3,.3-4,8.5 .1-4.7 .5,2.4zM89,1000l-.4-.8-.3-.9-.3-.9-.3-.9-4.3,1.3 .2-1.8 .3-1.8 .2-1.8 .5,4.3z"/>
<path color="#df0" d="M51.1,984.5l-.3-.4-.3-.6-4,9.3 .4,3.3 .2-3.9zM53,987.1l-.4-.5-.3-.4-4.2,5.1 .4,3.5 .6,2.7zM54.7,990.2l-.4-1.5-.3-.4-.3-.3-4,8.7 .2-3.4 .1-3.6 .5,4.7zM62,990.8l-.7,3-1-4.1-1-4.2-4.1,7.1 .9,1.1 .9,2.3 .8-2.4zM63.3,988.5l-.3-.4-4.1,5.4 .4,4.7zM65.9,988.6l-.3,.3-3.9,12.8 .2-4.6zM69.1,997.2l-1.1-6.4-.4-.7-.5-.6-.5-.6-4.1,5.9 .5,2.4 .4-1.7 .4-1.6 1,3.6zM89.3,1000.9l-.3-.9-4.4-3.3 .4,4.2zM101.7,1003.9l-.5-1.2-.5-1.3-.4,4.6-4.3-1 .3-5.9 .5,2.7 .6,2.6z"/>
<path color="#be0" d="M53.7,988l-.3-.4-.4-.5-3.9,10.4 .5,2.7 .1-3.5zM55,991.8l-.3-1.6-4.2,4.2 .4,4.6zM65.6,988.9l-.2,.3-.9,.8-.9-1.1-.3-.4-4,9.7 .5,4.7 .9,.8 .9,2.7 .1-4.7zM72,997.9l-.3-.4-4.3,2 .5,4.5zM75.2,997.4l-.9,1-.8,1.1-4.2,3 .8-1.4 1,2.4zM89.6,1001.8l-.3-.9-4.3,0 .4,4.3zM104.2,1005.6l-.3,.2-.3,.1-.5,.3-.5,.2-.4-1.3-.5-1.2-4.3,.5 .5,2.8 .5,2.8 .5-1.9 .4-2 .4,2.7 .3,2.6zM108.8,1008.9l-.5-2.1-.4,1.6-4.3,1.9 .4-3.5 .6,4.9z"/>
<path color="#9e0" d="M56,996.5l-.3-1.5-.4-1.6-.3-1.6-4.1,7.2 .5,4.6 .1-4.1 .1-4.2zM70.2,1003.5l-1.1-6.3-4.3,.3 1.1,7.4zM72.3,998.2l-.3-.3-4.1,6.1 .4,4.4zM73.5,999.5l-.3-.4-.3-.3-4,10.6 .2-3.5 .2-3.4zM76.5,1001.9l-.3-1.2-1-3.3-4.1,6.1 .9,1.5 .4,3.4zM90.6,1006.3l-1-4.5-4.2,3.4 1,4zM107.9,1008.4l-.5,1.6-.4,1.6-.5,1.6-1-3.8-4.3-1.8 1,3.6 .5,1.3 .5,1.3 .4-3.5zM109.3,1011.1l-.5-2.2-4.2,2.8 .6,4.9z"/>
<path color="#8e0" d="M72.9,998.8l-.3-.3-.3-.3-4,10.2 .4,4.4 .2-3.4zM111.3,1013.3l-.5,1-.4,1.1-.5-2.2-.6-2.1-4.1,5.5 .4-1.7 .5-1.8 .5,2 .5,2zM113.3,1021.5l-1.1-10.3-4.2,3.3 1.1,9zM119.5,1016l-.5-.7-1-1.4-.9,2.5-.9,2.5-.5,3.2-4.3-6.1 .5,.6 1,.3 .9,.6 1,.9 .6,3.7zM122.5,1017.6l-.6-4.3-.4,.8-4.1,11.4 .4-2.5 .5-.6z"/>
<path color="#6e0" d="M121.5,1014.1l-.5,.9-1,1.7-.5-.7-4.1,6.1 .5,3.7 1,2.2 .5-2.5zM123,1022l-.5-4.4-4.2,4.8 .5-.5zM132,1029.3l-.5-.9-4.3-2.5 .5-2.2z"/>
<path color="#4e0" d="M124.1,1030.7l-1.1-8.7-4.2-.1 1,4.8zM131.5,1028.4l-.5-1-1-1.9-.4,1-4.1,5.4 .3-4.7 1,.9 .4-2.2zM132.7,1031.9l-.4-1.3-.3-1.3-4.3-5.6 .4,3.9 .4,3.9zM144.2,1035.1l-1.1-2.9-.3-.9-4.2,5.4 .3-3.1 1.1-.3z"/>
<path color="#2e1" d="M133.5,1035.1l-.5-1.9-.3-1.3-4.2-.4 .3,3.9 .5-.5zM138,1032.1l-.5-1.4-.5-1.5-.5-1.4-.5-1.4-1,5.3-4.1,7 1-1.2 .5-.9 .5-.9 .5,3.1 .5,3.1zM142.8,1031.3l-.4-.9-.3-1-4.1,13.6 .3-3.1 .3-3.2zM144.5,1036.6l-.3-1.5-4.2-1.8 .3,3.8z"/>
<path color="#0e2" d="M135,1031.7l-.3,1.8-.3,1.8-.3,1.7-.6-1.9-4.2-.2 .5-.6 .4,1.5 .3,1.4 .4,1.5zM142.1,1029.4l-1,2.3-1,2.3-.5-.5-.5-.5-1.1-.9-4.1,9.8 1-1.1 .6,3.3 .5,3.4 1-1.3 1-3.2zM145.2,1039.5l-.3-1.4-.4-1.5-4.2,.5 .4,3.8 .4,3.7z"/>
<path color="#0e7" d="M146.3,1044l-1.1-4.5-4.1,5.1 1,4z"/>
<path color="#0ed" d="M146.9,1045.5l-.3-.8-.3-.7-4.2,4.6 .4,2.9 .3,2.9z"/>
<path color="#0cf" d="M153,1053.4l-.5-1.7-1.1-.9-1-1-1-.7-.6-.4-.5-.4-1-2.1-.4-.7-4.1,8.9 .4,2.9 1,.4 .5-2.1 .5-2 1.1,2.2 1-.4 1-.4 .6,3.2z"/>
<path color="#09f" d="M153.5,1055.2l-.5-1.8-4.1,4.8 .5,3.2z"/>
<path color="#07f" d="M155.6,1057.6l-1,1.1-1.1-3.5-4.1,6.2 1,.1 1.1,.3zM157.7,1062l-1.1-5.5-4.1,3.7 1.1,4.9z"/>
<path color="#05f" d="M158.2,1064.8l-.5-2.8-4.1,3.1 .5,4.3z"/>
<path color="#02f" d="M159.8,1070.3l-1.1-2.7-.5-2.8-4.1,4.6 .5,4.3 1.1,.6z"/>
<path color="#00f" d="M161.9,1077l-1.1-4.1-1-2.6-4.1,4 1,.9 1.1,3.7z"/>
<path color="#50e" d="M162.9,1081.1l-1-4.1-4.1,1.9 1,4.6z"/>
<path color="#70d" d="M163.9,1086.1l-1-5-4.1,2.4 1.1,4.7z"/>
<path color="#70c" d="M165,1091.2l-1.1-5.1-4,2.1 1,5.3z"/>
<path color="#70a" d="M166,1094.7l-1-3.5-4.1,2.3 1.1,3.6z"/>
<path color="#708" d="M168.1,1099.3l-1-1.1-1.1-3.5-4,2.4 1,3.2 1.1,1.2z"/>
<path color="#506" d="M182,1105.6l-1.1-.4-1-.4-1.1-.5-1.1-.4-1.1-.4-1-.5-1.1-.4-1.1-.4-1-.5-1.1-.4-1.1-.4-1-.5-1.1-1.1-4,2.2 1,1 1.1,.5 1.1,.4 1,.4 1.1,.5 1.1,.4 1,.4 1.1,.5 1.1,.4 1.1,.5 1.1,.4 1,.4 1.1,.4z"/>
<path color="#df0" d="M46.1,989.6l-.4-3.2-.4,1.1-.3,1.2-4.1,8.1 .3-3.1 .3-3.2 .5,5.9zM48.1,991.3l-.4-3.4-4.3,2.1 .5,6.5zM52.2,996.3l-.5-5.2-.1,4.2-4.4-1.2-.2-10.1 .8,10.9zM55.2,992.6l-.5-1.3-.5-1.4-.2,4.8-4.3,1.9 .1-7.1 .6,5.2 .6,5.1zM58.9,993.5l-.5-4.7-.6,4.8-4.3,2.9 .6-6.7 .6,9.1zM62.5,994.8l-.5-2.4-4.3,4.2 .6,4.1zM64.8,997.5l-1-3.6-.4,1.6-4.2,5.4 .3-3.9 .9,.9zM97.4,1004.4l-.6-2.6-4.3-1 .5,4.2z"/>
<path color="#ef0" d="M47.7,987.9l-.4-3.5-.1,3.9-4.3,3.4-.1-8.3 .6,6.6zM85,1000.9l-.4-4.2-4.5-3.4 .5,7.7zM96.8,1001.8l-.5-2.7-.3,5.9-4.4-1 .3-7.3 .6,4.1z"/>
<path color="#be0" d="M50.5,994.4l-.5-4.7-4.4,1.1 .6,7.8zM57.8,993.6l-.8,2.4-.9-2.3-.9-1.1-4.2,7.2 .8-2 .9,.5 .8-1.8zM63.4,995.5l-.4,1.7-.5-2.4-4.2,5.9 .6,4.2 .3-4zM85.4,1005.2l-.4-4.3-4.4,.1 .5,7.6zM97.9,1007.2l-.5-2.8-4.4,.6 .6,4.3zM99.7,1008.8l-.4-2.7-.4,2-4.3,1.9 .4-3.6 .4,5.4zM102.2,1011.2l-1-3.6-.3,2.2-4.3,1.7 .2-5.6 1,3.2zM111.4,1016l-.5-.7-4.5-10.2 .6,4.6z"/>
<path color="#9e0" d="M52.7,1001.4l-.5-5.1-4.4-1.4 .7,10.9zM54,994.7l-.3,4.7-4.2,4.2 .2-7zM59.3,998.2l-.4-4.7-4.2,5.4 .6,9.1zM65.9,1004.9l-1.1-7.4-4.4,.4 1.1,8.3zM67.9,1004l-.5-4.5-.1,5.1-4.2,6 0-9.1 .6,8.6zM71.1,1003.5l-1-2.4-.8,1.4-4.3,3 .8-1.7 1.1,5.8zM79,1003.6l-.3,3.5-4.2,4.8 .2-6.3zM86.4,1009.2l-1-4-4.3,3.4 1,3.4zM92.9,1011l-1-.5-1-6.2-4.3,1.8 1.1,7.7 .8-3.6zM98.9,1008.1l-.5,1.9-.5-2.8-4.3,2.1 .6,4.4 .4-3.7zM100,1011.4l-.3-2.6-4.3,3 .4,5.5zM112.9,1016.9l-1-.3-.5-.6-4.4-6.3 .5,4.6 1.1,3z"/>
<path color="#4e0" d="M53.5,1003l-.3,3.6-4,10 .2-6.5zM72.8,1011.8l-.4-3.4-4.2,6.6 .5,5.7zM95.3,1016.3l-.3,5.4-4.3,2 .3-6.2zM118.3,1022.4l-.5,.6-4.1,9.7 .4-5.5zM121.9,1033.7l-.6-3.6-4.3-7.6 .5,5zM126.8,1028.1l-1-.9-.3,4.7-4.2,5.4 .2-8.3 1-.2zM140.3,1037.1l-.3-3.8-1.1,.3-4.2,1.3 1-3.4 .4,6.1z"/>
<path color="#8e0" d="M53.7,999.4l-.2,3.6-4.1,7.1 .1-6.5zM72.4,1008.4l-.4-3.4-.9-1.5-4.2,6.1 .8-.3 .5,5.7zM87,1013.5l-.6-4.3-4.3,2.8 .7,6.5zM95.7,1010.9l-.4,5.4-4.3,1.2 .3-6.3zM114.8,1018.4l-1-.9-.9-.6-4.3,.4 1,3.7 1,.5zM128.1,1027.6l-.4-3.9-.5,2.2-4.3-2.5 .5-5.5 .4,6.6z"/>
<path color="#6e0" d="M66.3,1008.1l-.4-3.2-4.4,1.3 .6,7.6zM75.2,1009.4l-.3,4.6-4.2,4.7 .2-6.2zM88.3,1010.9l-.4,3.5-4.2,4.8 .3-5.8zM110.7,1021.9l-.2,6.6-4.3-1.1 .1-11.1zM115.4,1022.1l-.6-3.7-4.2,3.1 .6,6.7zM121.3,1030.1l-.5-3.6-1,.2-1-4.8-.5,.5-4.2,4.8 .4-5.5 1,.9 .9-5 .6,4.9zM128.5,1031.5l-.4-3.9-4.3-3.1 .4,6.6z"/>
<path color="#2e1" d="M67.2,1009.6l-.1,5-3.9,14.2 0-9.1zM122.9,1035.6l-.5-.9-.5-1-4.4-6.2 .6,4.1 .5,4.1zM130.2,1035.8l-.4-1.5-.5,.6-.5,.5-.3-3.9-4.3-.4 .4,6.5 .5-3 .4-3.1 .4,4.7z"/>
<path color="#fe0" d="M84.6,996.7l-.5-4.3-4.5-6.9 .5,7.8z"/>
<path color="#0e2" d="M110.5,1028.5l-.2,6.5-.6-5.7-4.2,2.7 .6,6.4 .1-11zM125.5,1031.9l-.3,4.6-4.1,9.1 .2-8.3zM130.5,1037.2l-.3-1.4-4.3,.4 .4,4.8zM133.4,1038.8l-.5-3.1-.5,.9-4.2,8.8 .5-3.3 .5,4.8zM140.7,1040.9l-.4-3.8-4.2,.5 .4,6.1z"/>
<path color="#0ed" d="M125.2,1036.5l-.3,4.6-4,12.8 .2-8.3zM142.1,1048.6l-1-4-4.2,5.1 1,3.4z"/>
<path color="#0e7" d="M132.4,1036.6l-.5,.9-1,1.2-.4-1.5-4.2,3.8 .4,4.7 1,3 .5-3.3zM133.9,1041.9l-.5-3.1-4.2,8.1 .6,4.8zM141.1,1044.6l-.4-3.7-4.2,2.8 .4,6z"/>
<path color="#0cf" d="M138,1043l-1,3.2-4.1,14.6 1-4.1zM142.5,1051.5l-.4-2.9-4.2,4.5 .4,5.2z"/>
<path color="#09f" d="M142.8,1054.4l-.3-2.9-4.2,6.8 .4,5.1zM148.9,1058.2l-.6-3.2-1,.4-1,.4-1.1-2.2-.5,2-4.1,7 .5-4.5 1,3.8 1-1.8 1.1-1.8 .5,4.7z"/>
<path color="#07f" d="M143.2,1057.3l-.4-2.9-4.1,9 .4,5.1zM153.6,1065.1l-1.1-4.9-1,1.6-1.1-.3-1-.1-.5-3.2-4.2,4.8 .5,4.6 1.1-3.3 1,1.8 1.1-2.1 1,4.2z"/>
<path color="#05f" d="M144.2,1057.7l-1-.4-4.1,11.2 1-1.4zM154.1,1069.4l-.5-4.3-4.2,3.1 .6,5.9z"/>
<path color="#00f" d="M156.7,1075.2l-1-.9-1.1-.6-.5-4.3-4.1,4.7 .5,5.8 1-1.5 1.1-1z"/>
<path color="#20f" d="M157.8,1078.9l-1.1-3.7-4.1,2.2 1,3.4z"/>
<path color="#50e" d="M158.8,1083.5l-1-4.6-4.2,1.9 1.1,5.2z"/>
<path color="#70d" d="M159.9,1088.2l-1.1-4.7-4.1,2.5 1.1,4.4z"/>
<path color="#70c" d="M160.9,1093.5l-1-5.3-4.1,2.2 1,5.4z"/>
<path color="#70a" d="M162,1097.1l-1.1-3.6-4.1,2.3 1.1,3.7z"/>
<path color="#708" d="M163,1100.3l-1-3.2-4.1,2.4 1,3z"/>
<path color="#506" d="M178,1107.7l-1.1-.4-1-.4-1.1-.4-1.1-.5-1.1-.4-1.1-.5-1-.4-1.1-.4-1.1-.5-1-.4-1.1-.4-1.1-.5-1-1-1.1-1.2-4.1,2.2 1.1,1.3 1.1,.8 1,.5 1.1,.4 1,.5 1.1,.4 1.1,.4 1.1,.5 1,.4 1.1,.4 1.1,.5 1.1,.4 1.1,.5 1.1,.4z"/>
<path color="#6e0" d="M40.3,1001l-.7,3.1-4.2,6 .8-1.8zM45.7,998.2l0,7.3-4.1,8.9-.2-11.2zM46.8,1006.3l-.6-7.7-4.2,4.2 .7,10.8zM62.1,1013.8l-.6-7.6-4.3,1.4 .7,11.9zM65,1005.5l0,7.3-4.2,6.9-.1-11.1zM67.7,1009.3l-.8,.3-4.2,6.2 .8-2.2zM70.1,1014.1l-.6-4.6-.1,5.7-4.2,4.7-.1-8.9 .7,6.2zM82.8,1018.5l-.7-6.5-4.3,3 .7,8.6zM84,1013.4l-.3,5.8-4.3,4.9 .3-8.2zM90.7,1023.7l-1.1-8.3-4.4-.2 1.2,10.5zM101.3,1016.5l-.3,5.7-.7-7.7-4.3,2.9 .7,10.4 .3-9.6zM104.9,1025.6l-1.2-7.9-.8,3.2-4.3,3.9 .8-3.7 1.1,6.7zM110.6,1021.5l-1-.5-4.3,3.6 1,0zM114.5,1021.7l-.4,5.5-4.3,4.9 .3-10.5zM118.1,1031.6l-.6-4.1-4.4-6.3 .6,7.3zM122.5,1028.8l-1,.2-4.3,1.7 1-1.2zM124.2,1031.1l-.4-6.6-4.4-3.1 .5,9.3zM135.7,1031.5l-1,3.4-4.3,1.4 1-6.6z"/>
<path color="#8e0" d="M40.9,996.8l-.6,4.2-4.1,7.3 .6-3.2zM42.5,1002.2l-.5-5.8-4.2,6.8 .7,8.4zM44.5,1003l-.6-6.5-4.2,5.2 .7,9.5zM55.3,1008l-.6-9.1-4.2,5.5 .8,13.4zM59.2,1000.9l-.3,4-.6-4.2-4.2,6 .7,5.9 .2-6.2zM63.7,1010.1l-.6-8.6 0,9.1-4.2,6.2-.1-13.3 .7,12.8zM66.9,1009.6l-1.1-5.8-4.3,2.7 1.2,9.3zM71.8,1011.6l-.6-5.4-.3,6.3-4.3,3.1 .2-7.9 .8,9.8zM74.7,1005.6l-.2,6.3-4.3,4.9 .2-9.1zM82.1,1012l-1-3.4-4.3,3.5 1,2.9zM86.2,1009.9l-.4,3.7-.9-.3-.9,.1-4.3,2.5 .9,.9 1,1.5 .3-5.1zM91.3,1011.2l-.3,6.3-4.3,1.2 .2-7.1zM95.8,1017.3l-.4-5.5-4.3,3.1 .5,8.3zM96.6,1011.5l-.1,5.6-4.3,5.3 .1-9.1zM99.3,1012.3l-.3,5.4-.6-4.3-4.4,.9 .7,7.2 .3-7.3zM102.9,1020.9l-.6-5-4.4,.8 .7,8.1zM106.3,1016.3l-.1,11.1-4.4-1.1 0-15.7zM109.6,1021l-1-3.7-4.4,.5 1.1,6.8zM115.5,1022.6l-1-.9-4.4-.1 1-3.1zM117.5,1027.5l-.5-5-4.5-7.7 .6,6.4zM122.9,1023.4l-.4,5.4-4.3,.7 .4-8.7z"/>
<path color="#9e0" d="M41.2,993.7l-.3,3.1-4.1,8.3 .2-5.2zM42.9,991.7l.1,8.2-4.1,7.7-.3-12.5zM47.2,994.1l.1,9.9-4.2,4.7-.4-15.9zM48.5,1005.8l-.7-10.9-4.5-1.3 .9,16.6zM49.7,996.6l-.2,7-4.2,4.3 0-9.4zM51.8,997.8l-.8,2-.6-5.1-4.3,3.4 .8,8.8 .6-5zM57.7,996.6l.1,9-4.1,8.7-.2-13.5zM61.5,1006.2l-1.1-8.3-4.4,.4 1.2,9.3zM65.8,1003.8l-.8,1.7-4.3,3.1 .8-2.1zM78.7,1004.3l-.3,5.2-.5-4.4-4.4,2.8 .7,7.1 .2-7.3zM89.6,1015.4l-1.1-5.2-.8,3.6-1.1-7.7-.4,3.8-4.3,3.3 .3-5.2 1.2,9.2 .7-7.9 1.1,5.9zM94.6,1010l-.4,3.7-.6-4.4-4.3,2.2 .6,5.9 .3-5.4zM101.7,1010.8l-.4,5.7-4.3,1.7 .3-9.7zM108.6,1017.3l-1.1-3-4.4-2.4 1.1,5.9z"/>
<path color="#be0" d="M42,996.4l-.5-5.9-.3,3.2-4.2,6.2 .2-5.3 .6,8.6zM43.9,996.5l-.5-6.5-4.4,2.1 .7,9.6zM46.2,998.6l-.6-7.8 .1,7.4-4.3,5-.2-11.3 .8,10.9zM53.5,996.5l-.8,1.8-.9-.5-4.3,4.1 .8-1.4 .8-1.1zM58.3,1000.7l-.6-4.1-4.2,4.2 .6,5.9zM59.5,997l-.3,3.9-4.2,5.5 .2-6.3zM75.4,999.6l-.7,6-4.3,2.1 .6-8.4zM77.9,1005.1l-.6-4.4-4.4,.1 .6,7.1zM81.1,1008.6l-.5-7.6-4.4,0 .6,11.1zM91.6,1004l-.3,7.2-4.4,.4 .3-8.7zM93.6,1009.3l-.6-4.3-4.4,.5 .7,6zM95.4,1011.8l-.4-5.4-.4,3.6-4.4,2 .4-5.4 .5,8.3zM96.8,1005.9l-.2,5.6-4.3,1.8 .1-9.2zM98.4,1013.4l-.6-4.3-4.4-2.1 .6,7.3zM100.3,1014.5l-.6-7.6-.4,5.4-4.3,1.9 .3-7.3 .7,10.5zM102.3,1015.9l-.6-5.1-4.4-2.3 .6,8.2zM117,1022.5l-.6-4.9-.9,5-4.4-4.1 .8-10.1 .6,6.4zM123.8,1024.5l-.4-6.6-.5,5.5-4.3-2.6 .3-8.7 .5,9.3z"/>
<path color="#4e0" d="M43,999.9l0,8.1-.5-5.8-4,9.4 .6,8.5-.2-12.5zM45.1,1007.9l-.6-4.9-4.1,8.2 .7,7.2zM49.5,1003.6l-.1,6.5-4.2,7.2 .1-9.4zM68.2,1015l-.5-5.7-4.2,4.3 .5,8zM70.9,1012.5l-.2,6.2-.6-4.6-4.3,3.1 .7,6.2 .1-7.8zM72.4,1017l-.6-5.4-4.2,5.9 .7,9.6zM74.5,1011.9l-.3,6.2-4.1,7.7 .1-9zM91,1017.5l-.3,6.2-4.3,2 .3-7zM96.5,1017.1l-.2,5.6-.5-5.4-4.2,5.9 .5,8.2 .1-9zM111.2,1028.2l-.6-6.7-4.3,3.1 .6,9.8zM125.9,1036.2l-.4-4.7-.4,3.1-4.3-.3 .4-5.6 .4,8zM136.1,1037.6l-.4-6.1-4.3-1.8 .4,8.5z"/>
<path color="#ef0" d="M42.8,983.4l.1,8.3-4.3,3.4-.3-12.7zM77.3,1000.7l-1.1-6.2-.8,5.1-4.4-.3 .7-7.8 1.2,9.3zM79.2,994.6l-.2,4.5-4.3,1.3 0-7.3zM93,1005l-.5-4.2-4.5-.9 .6,5.6zM106.4,1005.1l-.1,11.2-4.5-5.7 0-15.9z"/>
<path color="#fe0" d="M43.4,990l-.6-6.6-4.5-1 .7,9.7zM47.8,994.9l-.8-10.9 .2,10.1-4.5-1.3-.4-16 1,16.8zM80.6,1001l-.5-7.7-4.6-3.5 .7,11.2zM92.5,1000.8l-.6-4.1-.3,7.3-4.4-1.1 .2-8.7 .6,5.7zM107,1009.7l-.6-4.6-4.6-10.4 .7,8.6z"/>
<path color="#0e2" d="M45.7,1012.8l-.6-4.9-4,10.5 .7,7.1zM49.4,1010.1l-.2,6.5-4,10 0-9.3zM55.9,1017l-.6-9-4,9.8 .8,13.3zM62.7,1021.3l-.6-7.5-4.2,5.7 .7,11.7zM65,1012.8l-.1,7.2-4,10.7-.1-11zM68.7,1020.7l-.5-5.7-4.2,6.6 .6,8zM106.2,1027.4l-.1,11-4.3,3.4 0-15.5zM111.8,1034.9l-.6-6.7-4.3,6.2 .7,9.6zM119,1041.3l-.4-5.6-4.3,.1 .5,9.2zM126.3,1041l-.4-4.8-4.3,.5 .5,8zM136.5,1043.7l-.4-6.1-4.3,.6 .4,8.4z"/>
<path color="#2e1" d="M45.7,1005.5l0,7.3-3.9,12.7-.2-11.1zM47.3,1004l.1,10-.6-7.7-4.1,7.3 .7,10.7-.3-15.6zM49.2,1016.6l-.7-10.8-4.3,4.4 1,16.4zM57.8,1005.6l0,9-3.9,13-.2-13.3zM63.1,1010.6l.1,9.1-4.1,10.2-.2-13.1zM64.3,1018.7l-.6-8.6-4.2,6.2 .8,12.7zM69.4,1015.2l-.1,5.6-4.1,8 0-8.9zM74.2,1018.1l-1-4.4-.8,3.3-4.1,10.1 .7-6.4 1.1,5.1zM83.7,1019.2l-.3,5.8-.6-6.5-4.3,5.1 .7,8.6 .2-8.1zM105.5,1032l-.6-6.4-4.4,2.2 .7,7zM114.1,1027.2l-.4,5.5-4.2,9.9 .3-10.5zM118.6,1035.7l-.5-4.1-4.4-3.1 .6,7.3zM121.5,1029l-.2,8.3-4.2,5.5 .1-12.1zM125.1,1034.6l-.5,3-.4-6.5-4.3-.4 .4,9.2 .5-5.6zM134.7,1034.9l-.3,7.3-4.2,5.6 .2-11.5z"/>
<path color="#df0" d="M50.4,994.7l-.6-5.2-.1,7.1-4.4,1.9 0-9.4 .8,9zM54.7,998.9l-.6-9.1-.6,6.7-4.4,2.9 .5-8.6 .9,13.6zM60.4,997.9l-.9-.9-4.3,3.1 .8-1.8zM79,999.1l-.3,5.2-4.3,3.4 .3-7.3zM97.8,1009.1l-1-3.2-4.4-1.8 1,2.9zM107.5,1014.3l-.5-4.6-4.5-6.4 .6,8.6z"/>
<path color="#0e7" d="M56.8,1017.3l-.9-.3-3.8,14.1 .8-.1zM69.3,1020.8l-.1,5.6-4,11.2 0-8.8zM106.1,1038.4l-.6-6.4-4.3,2.8 .6,7zM113.7,1032.7l-.4,4.2-4.2,11.4 .4-5.7zM136.9,1049.7l-.4-6-4.3,2.9 .5,8.3z"/>
<path color="#0ed" d="M57.8,1014.6l.1,9-1.1-6.3-3.9,13.7 1.2,9.8-.2-13.2zM64.9,1020l0,7.2-.6-8.5-4,10.3 .7,12.6-.1-10.9zM69.2,1026.4l-.5-5.7-4.1,8.9 .6,8zM113.3,1036.9l-.5,4.1-1-6.1-4.2,9.1 1.2,10.1 .3-5.8zM119.4,1046.9l-.4-5.6-4.2,3.7 .5,9zM121.3,1037.3l-.2,8.3-4.2,9.2 .2-12zM126.7,1045.7l-.4-4.7-4.2,3.7 .4,8zM129.2,1046.9l-.5-4.8-.5,3.3-4.2,8.9 .5-5.6 .5,6.4zM134.4,1042.2l-.2,7.3-4.2,9.7 .2-11.4z"/>
<path color="#0cf" d="M63.2,1019.7l0,9.1-.5-7.5-4.1,9.9 .7,11.7-.2-13zM128.2,1045.4l-.5,3.3-1-3-4.2,7 1.1,7.2 .4-5.6zM129.8,1051.7l-.6-4.8-4.2,8.2 .6,6.4zM137.9,1053.1l-1-3.4-4.2,5.2 1,2.8z"/>
<path color="#fc0" d="M79.4,990l-.2,4.6-4.5-1.5 .1-7.3z"/>
<path color="#f90" d="M79.6,985.5l-.2,4.5-4.6-4.2 .1-7.3z"/>
<path color="#fa0" d="M80.1,993.3l-.5-7.8-4.7-7 .6,11.3z"/>
<path color="#09f" d="M119.9,1052.4l-.5-5.5-4.1,7.1 .4,9.1zM131.3,1054.8l-.5-6.2-1,3.1-4.2,9.8 1-5 .6,9.1zM134.2,1049.5l-.3,7.2-4.1,13.7 .2-11.2zM138.3,1058.3l-.4-5.2-4.2,4.6 .4,7.4zM144.2,1058.3l-1.1,1.8-4.2,4.7 1-3.1z"/>
<path color="#05f" d="M120.9,1053.9l-1-1.5-4.2,10.7 1.1,3.6zM131.9,1061l-.6-6.2-4.1,10.8 .6,9.1zM133.9,1056.7l-1,4.1-4.1,14.6 1-5zM138.7,1063.4l-.4-5.1-4.2,6.8 .4,7.4zM149.4,1068.2l-1-4.2-1.1,2.1-1-1.8-1.1,3.3-.5-4.6-4.2,4.8 .6,6.1 1-6.7 1,3.2 1-2.6 1.1,3.6z"/>
<path color="#07f" d="M121.1,1045.6l-.2,8.3-4.1,12.8 .1-11.9zM143.1,1060.1l-1,1.8-1-3.8-.5,4.5-4.2,7 .4-7 1.1,5.3 1-3.1zM144.7,1063l-.5-4.7-4.3,3.4 .6,6.1z"/>
<path color="#02f" d="M132.9,1060.8l-1,.2-4.1,13.7 1,.7zM139.1,1068.5l-.4-5.1-4.2,9.1 .4,7.3zM140.6,1062.6l-.5,4.5-4.2,9.4 .5-6.9zM150,1074.1l-.6-5.9-4.2,3.2 .6,7.4z"/>
<path color="#00f" d="M140.1,1067.1l-1,1.4-4.2,11.3 1-3.3z"/>
<path color="#20f" d="M153.6,1080.8l-1-3.4-1.1,1-1,1.5-.5-5.8-4.2,4.7 .5,7.4 1.1-3.7 1-2.8 1.1,3z"/>
<path color="#50e" d="M154.7,1086l-1.1-5.2-4.1,1.9 1,5.8z"/>
<path color="#70d" d="M155.8,1090.4l-1.1-4.4-4.2,2.5 1.1,4z"/>
<path color="#70c" d="M156.8,1095.8l-1-5.4-4.2,2.1 1.1,5.6z"/>
<path color="#70a" d="M157.9,1099.5l-1.1-3.7-4.1,2.3 1,3.8z"/>
<path color="#708" d="M158.9,1102.5l-1-3-4.2,2.4 1.1,2.7z"/>
<path color="#506" d="M174,1109.9l-1.1-.4-1.1-.5-1.1-.4-1.1-.5-1.1-.4-1-.4-1.1-.5-1.1-.4-1.1-.4-1-.5-1.1-.4-1-.5-1.1-.8-1.1-1.3-4.1,2.1 1.1,1.4 1,.7 1.1,.5 1,.5 1.1,.4 1.1,.4 1.1,.5 1,.4 1.1,.5 1.1,.4 1.1,.5 1.1,.4 1.1,.4 1.1,.5z"/>
<path fill="none" stroke="#8c8c8c" stroke-width=".4" stroke-opacity=".7" d="M160.8,1072.9L148.4,1079.7M140.1,1034L127.8,1074.7M120,1016.7L107.6,1044M100.7,1001.4L87.4,994.2M82.4,1003L70.1,1025.8M64.5,990L52.9,1031"/>
<path fill="none" stroke="#858585" stroke-width=".55" d="M169.9,1112.1l-1.1-.5-1.1-.4-1.1-.4-1.1-.5-1.1-.4-1.1-.5-1-.4-1.1-.5-1.1-.4-1.1-.4-1-.5-1.1-.5-1-.7-1.1-1.4-1.1-2.7-1-3.8-1.1-5.6-1.1-4-1-5.8-1.1-3-1,2.8-1.1,3.7-1.1-14.8-1.1-3.6-1,2.6-1-3.2-1,6.7-1.2-12.2-1,3.1-1,3.1-1.1-5.3-.9,13.9-1,3.3-1.2-22.1-1-2.8-1.3-25.2-1,6.6-.6,34.1-1,5-1-.7-1.2-18.2-1,5-1.1-12.8-.9,11.2-1.1-7.2-1.3-24-.9,11.2-1.4-27.8-.7,17.4-1,1.2-.4,36-1.1-3.6-1.4-27.3-1.2-14.6-1.2-12.8-.8,10.1-1,3.1-.6,21-.7,11.5-1.2-10.1-1.3-19.4-1,0-1.1-6.8-1.1-5.9-1.3-17.2 0,47.1-1.3-14-1.1-6.7-.8,3.7-1.3-16.3-.6,19.3-1.4-20.9-.6,14.6-1.3-14.5-1-2.9-.3,27.3-1.5-24.8-.7,10.8-1.3-11.9-1.2-11.3-.5,17.4-.5,14.1-1.2-10.5-1.1-5.9-.7,7.9-1.2-9.2-.6,10.3-1-1.5-.9-.9-.5,16.3-1.4-17.2-1-2.9-1.9-33.6-.2,21.9-.5,14.6-1.3-14.2-1.2-9.3-.7,7.8-.6,8.4-.3,18.1-1.1-5.1-.7,6.4-1.5-19.4-.3,15.7-1.4-12.4 .1,26.6-1.7-24-.8,2.2-1.2-9.3-.8,2.1 .3,33-2.2-38.1 .5,39.4-2.1-35.3-1.2-9.3-.8,1.8-.4,12.5-1.3-11.8 .6,40-1.2-9.8-.8,.1-2.5-40.3-.5,8.6-.8,1.1-.8,1.4-.6,5-1.6-17.8 0,18.8-.1,18.7-2.9-49.8 1.1,47.5-2.2-32.4 .6,33.6-1.4-14.3-2.1-28.8 .8,37.7-1.9-25.5-.4,10.5-.6,3.2-.8,1.8"/>
</g>
<path d="M38,1066.7L30.5,901.2M169.9,1113.9L38,1066.7M169.9,1113.9L273.8,1059.4" stroke="#1a1a1a" stroke-width=".85" fill="none"/>
<g style="font-family:'Liberation Serif',serif;font-weight:bold;font-size:10.3px" text-anchor="end">
<text transform="matrix(.988,-.15,.04,1,32.8,1070.7)">0</text>
<text transform="matrix(.988,-.15,.04,1,32.0,1054.2)">20</text>
<text transform="matrix(.988,-.15,.04,1,31.3,1037.5)">40</text>
<text transform="matrix(.988,-.15,.04,1,30.5,1020.6)">60</text>
<text transform="matrix(.988,-.15,.04,1,29.7,1003.5)">80</text>
<text transform="matrix(.988,-.15,.04,1,29.0,986.1)">100</text>
<text transform="matrix(.988,-.15,.04,1,28.2,968.5)">120</text>
<text transform="matrix(.988,-.15,.04,1,27.4,950.7)">140</text>
<text transform="matrix(.988,-.15,.04,1,26.5,932.7)">160</text>
<text transform="matrix(.988,-.15,.04,1,25.7,914.4)">180</text>
</g>
<text transform="translate(5.1,992.5) scale(.86,1) rotate(90)" text-anchor="middle" style="font-family:'Liberation Serif',serif;font-weight:bold;font-size:11.9px">F(eV/Å)</text>
<text transform="matrix(0.920,-0.393,1.130,0.404,157.8,1114.4)" text-anchor="end" style="font-family:'Liberation Serif',serif;font-weight:bold;font-size:9.8px">20000</text>
<text transform="matrix(0.920,-0.393,1.130,0.404,136.9,1106.9)" text-anchor="end" style="font-family:'Liberation Serif',serif;font-weight:bold;font-size:9.8px">40000</text>
<text transform="matrix(0.920,-0.393,1.130,0.404,116.9,1099.7)" text-anchor="end" style="font-family:'Liberation Serif',serif;font-weight:bold;font-size:9.8px">60000</text>
<text transform="matrix(0.920,-0.393,1.130,0.404,97.8,1092.9)" text-anchor="end" style="font-family:'Liberation Serif',serif;font-weight:bold;font-size:9.8px">80000</text>
<text transform="matrix(0.920,-0.393,1.130,0.404,79.5,1086.3)" text-anchor="end" style="font-family:'Liberation Serif',serif;font-weight:bold;font-size:9.8px">100000</text>
<text transform="matrix(0.920,-0.393,1.130,0.404,61.9,1080.1)" text-anchor="end" style="font-family:'Liberation Serif',serif;font-weight:bold;font-size:9.8px">120000</text>
<text transform="matrix(0.920,-0.393,1.130,0.404,45.0,1074.0)" text-anchor="end" style="font-family:'Liberation Serif',serif;font-weight:bold;font-size:9.8px">140000</text>
<text transform="matrix(0.958,0.287,0.250,0.680,175.4,1118.2)" text-anchor="start" style="font-family:'Liberation Serif',serif;font-weight:bold;font-size:9.6px">0</text>
<text transform="matrix(0.958,0.287,0.250,0.680,199.2,1105.7)" text-anchor="start" style="font-family:'Liberation Serif',serif;font-weight:bold;font-size:9.6px">5</text>
<text transform="matrix(0.958,0.287,0.250,0.680,221.4,1094.1)" text-anchor="start" style="font-family:'Liberation Serif',serif;font-weight:bold;font-size:9.6px">10</text>
<text transform="matrix(0.958,0.287,0.250,0.680,242.0,1083.3)" text-anchor="start" style="font-family:'Liberation Serif',serif;font-weight:bold;font-size:9.6px">15</text>
<text transform="matrix(0.958,0.287,0.250,0.680,261.3,1073.2)" text-anchor="start" style="font-family:'Liberation Serif',serif;font-weight:bold;font-size:9.6px">20</text>
<text transform="matrix(0.958,0.287,0.250,0.680,279.3,1063.8)" text-anchor="start" style="font-family:'Liberation Serif',serif;font-weight:bold;font-size:9.6px">25</text>
<path d="M38.0,1066.7l-3.6,0.6M37.2,1050.2l-3.6,0.6M36.5,1033.5l-3.6,0.6M35.7,1016.6l-3.6,0.6M34.9,999.5l-3.6,0.6M34.2,982.1l-3.6,0.6M33.4,964.5l-3.6,0.6M32.6,946.7l-3.6,0.6M31.7,928.7l-3.6,0.6M30.9,910.4l-3.6,0.6M159.0,1110.0l-3.2,1.7M138.2,1102.5l-3.2,1.7M118.2,1095.4l-3.2,1.7M99.0,1088.5l-3.2,1.7M80.7,1082.0l-3.2,1.7M63.1,1075.7l-3.2,1.7M46.2,1069.7l-3.2,1.7M169.9,1113.9l3.4,1.2M193.7,1101.4l3.4,1.2M215.9,1089.7l3.4,1.2M236.5,1078.9l3.4,1.2M255.8,1068.9l3.4,1.2M273.8,1059.4l3.4,1.2" stroke="#111" stroke-width=".8" fill="none"/>
<text transform="matrix(0.942,0.336,-1.063,0.557,54.1,1107.5)" text-anchor="middle" style="font-family:'Liberation Serif',serif;font-weight:bold;font-size:10.5px">Steps</text>
<text transform="matrix(0.815,-0.427,1.130,0.404,253.1,1093.9)" text-anchor="middle" style="font-family:'Liberation Serif',serif;font-weight:bold;font-size:10.0px">Cutting angle(°)</text>
<linearGradient id="gd" x1="0" y1="0" x2="0" y2="1"><stop offset="0.000" stop-color="#300040"/><stop offset="0.012" stop-color="#580068"/><stop offset="0.040" stop-color="#8000a0"/><stop offset="0.100" stop-color="#7000e8"/><stop offset="0.155" stop-color="#0000ff"/><stop offset="0.215" stop-color="#0070ff"/><stop offset="0.275" stop-color="#00e8ff"/><stop offset="0.325" stop-color="#00e810"/><stop offset="0.400" stop-color="#78e800"/><stop offset="0.500" stop-color="#ffff00"/><stop offset="0.575" stop-color="#ff9000"/><stop offset="0.645" stop-color="#ff0800"/><stop offset="0.780" stop-color="#ff0000"/><stop offset="0.900" stop-color="#a80000"/><stop offset="1.000" stop-color="#600000"/></linearGradient>
<rect x="290.6" y="892.2" width="19.4" height="156.8" fill="url(#gd)"/>
<rect x="290.6" y="892.2" width="19.4" height="1" fill="#000"/>
<g style="font-family:'Liberation Serif',serif;font-weight:bold;font-size:8.7px">
<text x="313.5" y="896.8">0.000</text>
<text x="313.5" y="912.4">19.00</text>
<text x="313.5" y="928.0">38.00</text>
<text x="313.5" y="943.7">57.00</text>
<text x="313.5" y="959.3">76.00</text>
<text x="313.5" y="974.9">95.00</text>
<text x="313.5" y="990.5">114.0</text>
<text x="313.5" y="1006.1">133.0</text>
<text x="313.5" y="1021.8">152.0</text>
<text x="313.5" y="1037.4">171.0</text>
<text x="313.5" y="1053.0">190.0</text>
</g>
<g stroke="#000" stroke-opacity=".8" stroke-width=".5" stroke-linejoin="round">
<path fill="#0000ff" d="M375.5,1096.3L377.2,1096.3L378.9,1096.3L380.5,1096.3L382.2,1096.3L383.9,1096.3L385.6,1096.3L387.2,1096.3L388.9,1096.3L390.6,1096.3L392.3,1096.3L394,1096.3L395.6,1096.3L397.3,1096.3L399,1096.3L400.7,1096.3L402.3,1096.3L404,1096.3L405.7,1096.3L406.6,1096.3L406.6,1076.1L406.4,1055.9L405.7,1048.8L404.4,1035.8L404,1032.4L402.3,1021.2L401.6,1015.6L401.7,995.4L401.8,975.2L402.3,962L402.8,955L403.9,934.9L403.7,914.7L403.6,894.5L402.3,894.5L400.7,894.5L399,894.5L397.3,894.5L395.6,894.5L394,894.5L392.3,894.5L390.6,894.5L388.9,894.5L387.2,894.5L385.6,894.5L383.9,894.5L382.2,894.5L380.5,894.5L378.9,894.5L377.2,894.5L375.5,894.5L375.5,914.7L375.5,934.9L375.5,955L375.5,975.2L375.5,995.4L375.5,1015.6L375.5,1035.8L375.5,1055.9L375.5,1076.1z"/>
<path fill="#0080ff" d="M406.6,1096.3L407.4,1096.3L409.1,1096.3L410.7,1096.3L412.4,1096.3L414.1,1096.3L415.8,1096.3L417.4,1096.3L419.1,1096.3L420.8,1096.3L422,1096.3L421.4,1076.1L420.8,1070.7L419.3,1055.9L419.1,1054.2L418.3,1055.9L417.4,1058.4L415.8,1069.1L414.9,1055.9L414.3,1035.8L414.1,1030.2L413.7,1015.6L414.1,1007.2L415,995.4L415.8,981.1L416.3,975.2L417.4,962.7L418.6,955L418.9,934.9L417.4,928.8L415.9,914.7L415.8,912L414.2,894.5L414.1,894.5L412.4,894.5L410.7,894.5L409.1,894.5L407.4,894.5L405.7,894.5L404,894.5L403.6,894.5L403.7,914.7L403.9,934.9L402.8,955L402.3,962L401.8,975.2L401.7,995.4L401.6,1015.6L402.3,1021.2L404,1032.4L404.4,1035.8L405.7,1048.8L406.4,1055.9L406.6,1076.1zM425,1096.3L425.8,1096.3L427.5,1096.3L429.2,1096.3L430.9,1096.3L431.6,1096.3L430.9,1083.2L429.2,1083L427.5,1081.5L425.8,1089.7zM461.2,1096.3L462.7,1096.3L463.1,1096.3L462.7,1093.5zM553.1,1096.3L553.4,1096.3L555,1096.3L555.3,1096.3L555,1094.5L553.4,1094.7zM420.6,995.4L420.8,996.9L422.5,1011.2L424.2,1012.6L425.8,1004.6L426.3,995.4L425.8,991L424.6,975.2L424.2,957.9L422.5,958.8L420.8,955L422.2,934.9L420.8,931.9L419.6,934.9L420.8,955L420.8,955.1L421.3,975.2L420.8,993.4z"/>
<path fill="#00ffff" d="M422,1096.3L422.5,1096.3L424.2,1096.3L425,1096.3L425.8,1089.7L427.5,1081.5L429.2,1083L430.9,1083.2L431.6,1096.3L432.5,1096.3L433.9,1096.3L434.2,1086.7L435.9,1084.6L437.1,1096.3L437.6,1096.3L439.3,1096.3L440.9,1096.3L442.6,1096.3L444.3,1096.3L446,1096.3L447.6,1096.3L449.3,1096.3L451,1096.3L452.7,1096.3L454.4,1096.3L455.9,1096.3L456,1090.7L456.5,1096.3L457.7,1096.3L459.4,1096.3L461.1,1096.3L461.2,1096.3L462.7,1093.5L463.1,1096.3L464.4,1096.3L466.1,1096.3L467,1096.3L467.8,1091.7L468,1096.3L469.5,1096.3L471.1,1096.3L472.8,1096.3L474.5,1096.3L474.7,1096.3L474.5,1094.4L472.8,1093.8L471.1,1079.2L470.9,1076.1L469.5,1067.1L468.1,1055.9L467.8,1052.9L466.1,1045.7L464.4,1050.4L463.5,1055.9L462.7,1061.5L461.1,1073.1L460.1,1076.1L459.4,1077.9L457.7,1076.4L457.7,1076.1L456,1069.7L454.4,1055.9L454.4,1055.3L452.7,1042.4L452.2,1035.8L451.4,1015.6L451,1006.5L449.3,1006.1L447.6,1015.1L446,1014.4L445,995.4L445.4,975.2L444.3,967.5L442.6,960.5L442,975.2L441.9,995.4L441.2,1015.6L440.9,1021.1L439.3,1019.6L438.6,1015.6L438.5,995.4L437.6,983.2L437,975.2L437.6,970.7L438.8,955L439.3,943.1L440.9,944.6L442.2,934.9L440.9,919L439.3,926.8L437.9,934.9L437.6,936.1L437.5,934.9L436.7,914.7L437.6,905L439.3,900.3L439.4,894.5L439.3,894.5L437.6,894.5L435.9,894.5L434.2,894.5L432.5,894.5L430.9,894.5L429.2,894.5L427.5,894.5L425.8,894.5L424.2,894.5L422.5,894.5L420.8,894.5L419.1,894.5L417.4,894.5L415.8,894.5L414.2,894.5L415.8,912L415.9,914.7L417.4,928.8L418.9,934.9L418.6,955L417.4,962.7L416.3,975.2L415.8,981.1L415,995.4L414.1,1007.2L413.7,1015.6L414.1,1030.2L414.3,1035.8L414.9,1055.9L415.8,1069.1L417.4,1058.4L418.3,1055.9L419.1,1054.2L419.3,1055.9L420.8,1070.7L421.4,1076.1zM435.9,1001.1L435.8,995.4L435.9,991.4L436.3,995.4zM440.9,1077.1L439.8,1076.1L439.3,1072.6L439,1055.9L439.3,1048.5L440.6,1055.9L440.9,1062.3L441.2,1076.1zM447.6,1077.4L447.5,1076.1L447.3,1055.9L447.6,1050.2L449.3,1054.6L449.4,1055.9L449.5,1076.1L449.3,1078.7zM420.8,996.9L420.6,995.4L420.8,993.4L421.3,975.2L420.8,955.1L420.8,955L419.6,934.9L420.8,931.9L422.2,934.9L420.8,955L422.5,958.8L424.2,957.9L424.6,975.2L425.8,991L426.3,995.4L425.8,1004.6L424.2,1012.6L422.5,1011.2zM485.4,1096.3L486.2,1096.3L487.9,1096.3L488,1096.3L488.1,1076.1L487.9,1073.1L486.5,1055.9L486.2,1046.9L486.1,1055.9L484.6,1076.1zM502.9,1096.3L503,1096.3L503,1095.9zM512.1,1096.3L513.1,1096.3L514.8,1096.3L515.5,1096.3L515.1,1076.1L514.8,1070.7L513.1,1066.3L512.8,1076.1zM549.2,1096.3L550,1096.3L551.7,1096.3L553.1,1096.3L553.4,1094.7L555,1094.5L555.3,1096.3L556.7,1096.3L557.3,1096.3L556.7,1090.6L555,1081.6L553.4,1081L551.7,1085.5L550,1081.4zM560.9,1096.3L561.7,1096.3L563.1,1096.3L561.7,1088.8zM563.7,1096.3L565.1,1096.3L566.6,1096.3L565.1,1084.6zM445.9,955L446,956.1L446,955L446,954.7zM446.9,934.9L447.6,944.1L448.2,934.9L447.6,927.3z"/>
<path fill="#00ff80" d="M433.9,1096.3L434.2,1096.3L435.9,1096.3L437.1,1096.3L435.9,1084.6L434.2,1086.7zM439.8,1076.1L440.9,1077.1L441.2,1076.1L440.9,1062.3L440.6,1055.9L439.3,1048.5L439,1055.9L439.3,1072.6zM447.5,1076.1L447.6,1077.4L449.3,1078.7L449.5,1076.1L449.4,1055.9L449.3,1054.6L447.6,1050.2L447.3,1055.9zM455.9,1096.3L456,1096.3L456.5,1096.3L456,1090.7zM457.7,1076.1L457.7,1076.4L459.4,1077.9L460.1,1076.1L461.1,1073.1L462.7,1061.5L463.5,1055.9L464.4,1050.4L466.1,1045.7L467.8,1052.9L468.1,1055.9L469.5,1067.1L470.9,1076.1L471.1,1079.2L472.8,1093.8L474.5,1094.4L474.7,1096.3L476.2,1096.3L477.8,1096.3L479.5,1096.3L481.2,1096.3L482.9,1096.3L484.6,1096.3L485.4,1096.3L484.6,1076.1L486.1,1055.9L486.2,1046.9L486.5,1055.9L487.9,1073.1L488.1,1076.1L488,1096.3L489.6,1096.3L491.3,1096.3L492.9,1096.3L494.6,1096.3L496.3,1096.3L498,1096.3L499.7,1096.3L501.3,1096.3L502.9,1096.3L503,1095.9L503,1096.3L504.7,1096.3L506.4,1096.3L508.1,1096.3L509.1,1096.3L509.7,1088.7L510,1096.3L511.4,1096.3L512.1,1096.3L512.8,1076.1L513.1,1066.3L514.8,1070.7L515.1,1076.1L515.5,1096.3L516.4,1096.3L518.1,1096.3L519.8,1096.3L521.5,1096.3L523.2,1096.3L524.8,1096.3L526.5,1096.3L528.2,1096.3L529.9,1096.3L530.5,1096.3L531.5,1083.5L533.2,1089.6L534.3,1076.1L534.9,1073.1L535.2,1076.1L535.1,1096.3L536.6,1096.3L538.3,1096.3L539.9,1096.3L541.6,1096.3L543.3,1096.3L545,1096.3L546.6,1096.3L548.3,1096.3L549.2,1096.3L550,1081.4L551.7,1085.5L553.4,1081L555,1081.6L556.7,1090.6L557.3,1096.3L558.4,1096.3L560.1,1096.3L560.9,1096.3L561.7,1088.8L563.1,1096.3L563.4,1096.3L563.7,1096.3L565.1,1084.6L566.6,1096.3L566.8,1096.3L568.5,1096.3L570.1,1096.3L570.2,1096.3L570.3,1076.1L570.1,1056.5L568.5,1073.1L566.8,1058.8L565.8,1055.9L565.1,1053.7L563.4,1047.1L561.7,1043.5L560.1,1050.2L559.3,1055.9L558.4,1065.6L556.7,1064.7L555,1058.2L553.4,1059.2L551.7,1056.6L551.5,1055.9L550.5,1035.8L550,1032.7L549.5,1035.8L548.3,1048.2L547,1035.8L546.6,1033.4L546.3,1035.8L545,1045L544.4,1035.8L543.3,1022.4L542.6,1015.6L541.6,1008.5L539.9,1014.1L539.7,1015.6L539.8,1035.8L539.9,1055.9L538.3,1058.9L536.6,1063.8L536,1055.9L534.9,1037.3L534.7,1035.8L533.2,1028.2L531.5,1024.8L529.9,1023.5L528.2,1025L526.5,1029.1L524.8,1025.1L524.3,1035.8L523.2,1051.9L522.9,1055.9L521.5,1072.2L519.8,1065.5L518.9,1055.9L518.1,1040.2L517.9,1035.8L516.4,1017.9L514.8,1018.8L513.1,1024.2L511.6,1015.6L511.4,1014.4L509.7,1011.1L509.3,1015.6L508.1,1025L506.8,1035.8L506.4,1041.3L505.8,1035.8L506.4,1016.9L506.4,1015.6L506.4,1013.4L504.7,997.5L503,1011.3L501.3,1015.3L499.7,1006.9L498.6,1015.6L498,1023.8L497.6,1015.6L496.3,999.7L494.6,1011.9L493.4,995.4L492.9,983L492.6,975.2L492.9,967.7L493.8,955L492.9,947.9L491.7,934.9L491.3,932.9L489.6,934.2L489.4,934.9L489.3,955L487.9,961.8L486.3,955L486.2,954.8L486.2,955L485.1,975.2L486.2,989.8L487.9,994.6L489.6,990.6L491.3,991.2L491.9,995.4L491.3,1008.7L489.6,998.5L487.9,995.9L486.2,998.8L484.6,997.5L482.9,1015.4L481.2,1015L479.5,1003.4L478.6,995.4L479.5,987.9L481.2,981.8L482.9,976.2L483.2,975.2L482.9,972.4L482.4,955L481.2,947.1L479.5,942.2L478.8,955L477.8,972.8L476.9,975.2L476.2,977.1L475.9,975.2L475.5,955L474.5,945.3L473.1,955L473.4,975.2L472.8,978.8L472.1,975.2L471.1,966.6L470.6,955L471.1,942.4L472.5,934.9L472.8,933.3L474.5,928.1L476.2,921.6L477.8,921.5L478.4,914.7L477.8,905L477.3,894.5L476.2,894.5L474.5,894.5L472.8,894.5L471.1,894.5L469.7,894.5L469.5,904.3L469.3,914.7L468.7,934.9L467.8,938.1L466.1,938.2L464.6,934.9L464.4,934.5L464.4,934.9L463.4,955L462.7,964.2L461.1,969.3L459.9,955L459.4,950.9L457.7,948.2L456.3,934.9L456.8,914.7L457.7,907.6L458.7,894.5L457.7,894.5L456,894.5L454.4,894.5L452.7,894.5L451,894.5L449.3,894.5L447.6,894.5L446,894.5L444.3,894.5L442.6,894.5L440.9,894.5L439.4,894.5L439.3,900.3L437.6,905L436.7,914.7L437.5,934.9L437.6,936.1L437.9,934.9L439.3,926.8L440.9,919L442.2,934.9L440.9,944.6L439.3,943.1L438.8,955L437.6,970.7L437,975.2L437.6,983.2L438.5,995.4L438.6,1015.6L439.3,1019.6L440.9,1021.1L441.2,1015.6L441.9,995.4L442,975.2L442.6,960.5L444.3,967.5L445.4,975.2L445,995.4L446,1014.4L447.6,1015.1L449.3,1006.1L451,1006.5L451.4,1015.6L452.2,1035.8L452.7,1042.4L454.4,1055.3L454.4,1055.9L456,1069.7zM472.8,1056.4L472.8,1055.9L472.8,1055.5L472.9,1055.9zM446,956.1L445.9,955L446,954.7L446,955zM447.6,944.1L446.9,934.9L447.6,927.3L448.2,934.9zM467,1096.3L467.8,1096.3L468,1096.3L467.8,1091.7zM573.6,1096.3L575.2,1096.3L576.8,1096.3L578.5,1096.3L580.2,1096.3L581.9,1096.3L583.6,1096.3L585.2,1096.3L586.9,1096.3L587.3,1096.3L586.9,1085.7L586.1,1076.1L585.2,1057.8L585.1,1055.9L583.6,1053L583.1,1055.9L581.9,1073.8L580.7,1076.1L580.2,1080.9L578.5,1079.3L577.2,1076.1L576.8,1073.2L576.5,1076.1L575.2,1079.8zM589.1,1076.1L590.3,1096.3L591.9,1096.3L593.5,1096.3L593.6,1093.4L593.8,1096.3L595.3,1096.3L597,1096.3L598.7,1096.3L600.3,1096.3L602,1096.3L603.7,1096.3L605.4,1096.3L607,1096.3L608.7,1096.3L610.4,1096.3L610.4,1076.1L610.4,1055.9L610.4,1054L608.7,1049.4L607,1044.2L605.9,1035.8L605.4,1033L604.8,1035.8L603.7,1045.9L602.8,1035.8L602,1031.2L601.2,1015.6L600.3,1008.8L599.4,1015.6L599,1035.8L598.7,1042.2L597,1055.6L595.3,1055.3L593.6,1039.5L591.9,1046.1L591,1035.8L590.3,1030.3L589.2,1035.8L588.6,1045.2L587.1,1055.9L588.6,1064.4zM603.7,1077.8L602.9,1076.1L603.7,1067L605.4,1060L607,1063.8L607.9,1076.1L607,1086.1L605.4,1089.6zM574.3,1055.9L575.2,1066.4L575.9,1055.9L575.9,1035.8L575.5,1015.6L575.2,1007.6L574.9,1015.6L574.2,1035.8zM578.6,1055.9L580.2,1073.5L580.7,1055.9L580.2,1053.3zM523,1015.6L523.2,1017.2L523.4,1015.6L523.2,1015.2zM435.8,995.4L435.9,1001.1L436.3,995.4L435.9,991.4zM496.7,955L498,966.7L499.1,955L498,945.5z"/>
<path fill="#00f000" d="M509.1,1096.3L509.7,1096.3L510,1096.3L509.7,1088.7zM530.5,1096.3L531.5,1096.3L533.2,1096.3L534.9,1096.3L535.1,1096.3L535.2,1076.1L534.9,1073.1L534.3,1076.1L533.2,1089.6L531.5,1083.5zM570.2,1096.3L571.8,1096.3L573.5,1096.3L573.6,1096.3L575.2,1079.8L576.5,1076.1L576.8,1073.2L577.2,1076.1L578.5,1079.3L580.2,1080.9L580.7,1076.1L581.9,1073.8L583.1,1055.9L583.6,1053L585.1,1055.9L585.2,1057.8L586.1,1076.1L586.9,1085.7L587.3,1096.3L588.6,1096.3L590.3,1096.3L589.1,1076.1L588.6,1064.4L587.1,1055.9L588.6,1045.2L589.2,1035.8L590.3,1030.3L591,1035.8L591.9,1046.1L593.6,1039.5L595.3,1055.3L597,1055.6L598.7,1042.2L599,1035.8L599.4,1015.6L600.3,1008.8L601.2,1015.6L602,1031.2L602.8,1035.8L603.7,1045.9L604.8,1035.8L605.4,1033L605.9,1035.8L607,1044.2L608.7,1049.4L610.4,1054L610.4,1035.8L610.4,1019.4L610,1015.6L610.2,995.4L608.7,980.1L607.4,995.4L607,999.6L605.4,995.4L603.7,976.3L602,993.3L600.3,984.2L598.7,980.2L597.9,975.2L597,959.6L595.9,975.2L595.4,995.4L595.3,998.3L593.6,996.2L593.5,995.4L591.9,984.2L590.3,993.2L589.1,995.4L588.6,996.9L587.3,1015.6L586.9,1018L586.5,1015.6L585.2,1010.4L584.3,1015.6L583.6,1022.9L582.2,1015.6L581.9,1012.6L581.6,1015.6L580.2,1024L578.5,1028.2L577.7,1015.6L577.6,995.4L576.9,975.2L576.8,972.3L575.9,955L575.2,949.7L574.8,955L574.7,975.2L573.5,989.6L573.3,995.4L571.8,1008.9L570.2,1015.6L570.1,1016.3L568.5,1022.8L566.8,1031.1L565.7,1015.6L565.1,1003.8L563.4,1013.1L561.7,1015.3L561.6,1015.6L560.1,1020.7L558.4,1025.6L556.7,1027.4L555.8,1015.6L555,1006.7L554.2,995.4L553.4,985.9L551.7,982.2L550,986.1L549.7,995.4L548.3,1014.3L546.6,999.6L546.2,995.4L546.6,980.7L547,975.2L546.6,973.7L545.8,975.2L545,977.3L543.3,981.8L541.6,984.8L539.9,988.3L538.7,995.4L538.3,998L536.6,1015.6L536.6,1017.6L536.5,1015.6L534.9,999.7L534.4,995.4L533.5,975.2L534.7,955L534.2,934.9L533.2,922.9L532.7,914.7L531.5,898.7L529.9,902.2L529.4,894.5L528.2,894.5L526.7,894.5L526.5,899L525.8,914.7L524.8,922.5L523.2,929.5L522.7,934.9L521.5,951.4L520.7,955L519.8,966.9L518.2,955L518.1,954.5L518,955L516.4,957.5L514.8,968.1L513.9,975.2L513.2,995.4L513.1,996L513,995.4L512.5,975.2L512.1,955L511.4,942.3L509.7,944L508.9,934.9L509,914.7L508.1,904.5L507.1,894.5L506.4,894.5L505.2,894.5L505.9,914.7L504.7,924.7L503.7,914.7L504.3,894.5L503,894.5L501.3,894.5L501.3,895.9L499.7,914.4L498.3,894.5L498,894.5L496.3,894.5L494.6,894.5L492.9,894.5L491.3,894.5L489.6,894.5L487.9,894.5L486.2,894.5L484.6,894.5L483,894.5L482.9,899.2L482.7,894.5L481.2,894.5L479.5,894.5L477.8,894.5L477.3,894.5L477.8,905L478.4,914.7L477.8,921.5L476.2,921.6L474.5,928.1L472.8,933.3L472.5,934.9L471.1,942.4L470.6,955L471.1,966.6L472.1,975.2L472.8,978.8L473.4,975.2L473.1,955L474.5,945.3L475.5,955L475.9,975.2L476.2,977.1L476.9,975.2L477.8,972.8L478.8,955L479.5,942.2L481.2,947.1L482.4,955L482.9,972.4L483.2,975.2L482.9,976.2L481.2,981.8L479.5,987.9L478.6,995.4L479.5,1003.4L481.2,1015L482.9,1015.4L484.6,997.5L486.2,998.8L487.9,995.9L489.6,998.5L491.3,1008.7L491.9,995.4L491.3,991.2L489.6,990.6L487.9,994.6L486.2,989.8L485.1,975.2L486.2,955L486.2,954.8L486.3,955L487.9,961.8L489.3,955L489.4,934.9L489.6,934.2L491.3,932.9L491.7,934.9L492.9,947.9L493.8,955L492.9,967.7L492.6,975.2L492.9,983L493.4,995.4L494.6,1011.9L496.3,999.7L497.6,1015.6L498,1023.8L498.6,1015.6L499.7,1006.9L501.3,1015.3L503,1011.3L504.7,997.5L506.4,1013.4L506.4,1015.6L506.4,1016.9L505.8,1035.8L506.4,1041.3L506.8,1035.8L508.1,1025L509.3,1015.6L509.7,1011.1L511.4,1014.4L511.6,1015.6L513.1,1024.2L514.8,1018.8L516.4,1017.9L517.9,1035.8L518.1,1040.2L518.9,1055.9L519.8,1065.5L521.5,1072.2L522.9,1055.9L523.2,1051.9L524.3,1035.8L524.8,1025.1L526.5,1029.1L528.2,1025L529.9,1023.5L531.5,1024.8L533.2,1028.2L534.7,1035.8L534.9,1037.3L536,1055.9L536.6,1063.8L538.3,1058.9L539.9,1055.9L539.8,1035.8L539.7,1015.6L539.9,1014.1L541.6,1008.5L542.6,1015.6L543.3,1022.4L544.4,1035.8L545,1045L546.3,1035.8L546.6,1033.4L547,1035.8L548.3,1048.2L549.5,1035.8L550,1032.7L550.5,1035.8L551.5,1055.9L551.7,1056.6L553.4,1059.2L555,1058.2L556.7,1064.7L558.4,1065.6L559.3,1055.9L560.1,1050.2L561.7,1043.5L563.4,1047.1L565.1,1053.7L565.8,1055.9L566.8,1058.8L568.5,1073.1L570.1,1056.5L570.3,1076.1zM575.2,1066.4L574.3,1055.9L574.2,1035.8L574.9,1015.6L575.2,1007.6L575.5,1015.6L575.9,1035.8L575.9,1055.9zM580.2,1073.5L578.6,1055.9L580.2,1053.3L580.7,1055.9zM498,966.7L496.7,955L498,945.5L499.1,955zM523.2,1017.2L523,1015.6L523.2,1015.2L523.4,1015.6zM526.5,1002.7L525.7,995.4L525.4,975.2L526,955L526,934.9L526.5,925.2L528.2,924.1L529.9,927.5L531.5,932.4L531.8,934.9L531.5,936.7L530.2,955L530.7,975.2L529.9,993.7L529.7,995.4L528.2,1002.2zM593.5,1096.3L593.6,1096.3L593.8,1096.3L593.6,1093.4zM602.9,1076.1L603.7,1077.8L605.4,1089.6L607,1086.1L607.9,1076.1L607,1063.8L605.4,1060L603.7,1067zM472.8,1055.9L472.8,1056.4L472.9,1055.9L472.8,1055.5zM568.2,995.4L568.5,999.9L568.7,995.4L568.7,975.2L568.5,964.5L568.3,975.2zM537.6,975.2L538.3,989.7L538.8,975.2L538.3,966.2zM459.9,955L461.1,969.3L462.7,964.2L463.4,955L464.4,934.9L464.4,934.5L464.6,934.9L466.1,938.2L467.8,938.1L468.7,934.9L469.3,914.7L469.5,904.3L469.7,894.5L469.5,894.5L467.8,894.5L466.1,894.5L464.4,894.5L462.7,894.5L461.1,894.5L459.4,894.5L458.7,894.5L457.7,907.6L456.8,914.7L456.3,934.9L457.7,948.2L459.4,950.9zM554.3,934.9L555,948.7L555.8,934.9L556.7,927.9L557.7,934.9L558.4,940.7L558.7,934.9L559.3,914.7L559,894.5L558.4,894.5L556.7,894.5L555,894.5L553.4,894.5L553.2,894.5L553.4,906.1L553.6,914.7zM543.2,914.7L543.3,916.2L543.7,914.7L543.3,912.4zM570.8,894.5L571.8,905.5L572.8,894.5L571.8,894.5z"/>
<path fill="#ffff00" d="M536.5,1015.6L536.6,1017.6L536.6,1015.6L538.3,998L538.7,995.4L539.9,988.3L541.6,984.8L543.3,981.8L545,977.3L545.8,975.2L546.6,973.7L547,975.2L546.6,980.7L546.2,995.4L546.6,999.6L548.3,1014.3L549.7,995.4L550,986.1L551.7,982.2L553.4,985.9L554.2,995.4L555,1006.7L555.8,1015.6L556.7,1027.4L558.4,1025.6L560.1,1020.7L561.6,1015.6L561.7,1015.3L563.4,1013.1L565.1,1003.8L565.7,1015.6L566.8,1031.1L568.5,1022.8L570.1,1016.3L570.2,1015.6L571.8,1008.9L573.3,995.4L573.5,989.6L574.7,975.2L574.8,955L575.2,949.7L575.9,955L576.8,972.3L576.9,975.2L577.6,995.4L577.7,1015.6L578.5,1028.2L580.2,1024L581.6,1015.6L581.9,1012.6L582.2,1015.6L583.6,1022.9L584.3,1015.6L585.2,1010.4L586.5,1015.6L586.9,1018L587.3,1015.6L588.6,996.9L589.1,995.4L590.3,993.2L591.9,984.2L593.5,995.4L593.6,996.2L595.3,998.3L595.4,995.4L595.9,975.2L597,959.6L597.9,975.2L598.7,980.2L600.3,984.2L602,993.3L603.7,976.3L605.4,995.4L607,999.6L607.4,995.4L608.7,980.1L610.2,995.4L610,1015.6L610.4,1019.4L610.4,1015.6L610.4,995.4L610.4,975.2L610.4,955L610.4,946.1L608.7,953.8L607,954.7L605.4,942.9L603.7,939.2L602.5,955L602,959.8L600.3,957.7L600.2,955L598.9,934.9L598.7,928.7L597,920.1L596.4,914.7L597,909.7L597.6,894.5L597,894.5L595.3,894.5L594.5,914.7L593.6,925.1L592.6,914.7L591.9,907.8L590.3,896.6L588.6,899.8L588.1,914.7L587.8,934.9L587.7,955L586.9,969.9L586.7,975.2L585.2,984L583.6,982.6L582.9,975.2L582.3,955L583.6,935.5L585.2,936L585.3,934.9L585.2,934.3L584,914.7L584.2,894.5L583.6,894.5L581.9,894.5L580.2,894.5L578.5,894.5L578.4,894.5L578.5,897.3L579.8,914.7L578.6,934.9L578.5,935.1L578.4,934.9L576.8,932.7L575.2,924.6L574.3,934.9L573.5,948.9L572.9,955L571.8,966.6L571.2,955L571.8,938.7L572.1,934.9L573.5,921.6L574.1,914.7L574.2,894.5L573.5,894.5L572.8,894.5L571.8,905.5L570.8,894.5L570.1,894.5L568.5,894.5L567.4,894.5L568.5,906.8L568.9,914.7L568.5,917.8L566.8,924.6L565.1,924.7L564.6,934.9L564,955L564.8,975.2L563.4,981.3L561.7,993.5L561.2,995.4L560.1,998.5L558.4,998.7L556.7,999.3L556.4,995.4L556.7,983.3L557.1,975.2L558.4,967.3L560.1,965.2L560.6,955L560.6,934.9L561,914.7L560.6,894.5L560.1,894.5L559,894.5L559.3,914.7L558.7,934.9L558.4,940.7L557.7,934.9L556.7,927.9L555.8,934.9L555,948.7L554.3,934.9L553.6,914.7L553.4,906.1L553.2,894.5L552.1,894.5L551.9,914.7L551.7,934.9L551.7,935.5L551.6,934.9L550,924.1L548.7,914.7L548.3,910.4L546.6,899.9L545,895.5L544.8,894.5L543.3,894.5L541.7,894.5L541.6,897.8L541.5,894.5L539.9,894.5L538.3,894.5L536.6,894.5L534.9,894.5L533.2,894.5L531.5,894.5L529.9,894.5L529.4,894.5L529.9,902.2L531.5,898.7L532.7,914.7L533.2,922.9L534.2,934.9L534.7,955L533.5,975.2L534.4,995.4L534.9,999.7zM538.3,989.7L537.6,975.2L538.3,966.2L538.8,975.2zM543.3,916.2L543.2,914.7L543.3,912.4L543.7,914.7zM568.5,999.9L568.2,995.4L568.3,975.2L568.5,964.5L568.7,975.2L568.7,995.4zM513,995.4L513.1,996L513.2,995.4L513.9,975.2L514.8,968.1L516.4,957.5L518,955L518.1,954.5L518.2,955L519.8,966.9L520.7,955L521.5,951.4L522.7,934.9L523.2,929.5L524.8,922.5L525.8,914.7L526.5,899L526.7,894.5L526.5,894.5L525.3,894.5L524.8,901.8L523.2,911.5L522.7,914.7L521.5,928.2L519.8,933.9L518.1,924.6L517.1,934.9L516.4,939.8L514.8,939.2L514.2,934.9L513.1,924.4L511.9,914.7L511.8,894.5L511.4,894.5L509.7,894.5L508.1,894.5L507.1,894.5L508.1,904.5L509,914.7L508.9,934.9L509.7,944L511.4,942.3L512.1,955L512.5,975.2zM525.7,995.4L526.5,1002.7L528.2,1002.2L529.7,995.4L529.9,993.7L530.7,975.2L530.2,955L531.5,936.7L531.8,934.9L531.5,932.4L529.9,927.5L528.2,924.1L526.5,925.2L526,934.9L526,955L525.4,975.2zM503.7,914.7L504.7,924.7L505.9,914.7L505.2,894.5L504.7,894.5L504.3,894.5zM609.8,914.7L610.4,924.9L610.4,914.7L610.4,894.5L609.4,894.5zM482.7,894.5L482.9,899.2L483,894.5L482.9,894.5zM498.3,894.5L499.7,914.4L501.3,895.9L501.3,894.5L499.7,894.5z"/>
<path fill="#ff8000" d="M556.4,995.4L556.7,999.3L558.4,998.7L560.1,998.5L561.2,995.4L561.7,993.5L563.4,981.3L564.8,975.2L564,955L564.6,934.9L565.1,924.7L566.8,924.6L568.5,917.8L568.9,914.7L568.5,906.8L567.4,894.5L566.8,894.5L565.1,894.5L563.8,894.5L563.4,903.1L562.8,894.5L561.7,894.5L560.6,894.5L561,914.7L560.6,934.9L560.6,955L560.1,965.2L558.4,967.3L557.1,975.2L556.7,983.3zM582.9,975.2L583.6,982.6L585.2,984L586.7,975.2L586.9,969.9L587.7,955L587.8,934.9L588.1,914.7L588.6,899.8L590.3,896.6L591.9,907.8L592.6,914.7L593.6,925.1L594.5,914.7L595.3,894.5L594.1,894.5L593.6,901.6L593,894.5L591.9,894.5L590.3,894.5L588.6,894.5L587.4,894.5L587,914.7L586.9,918.2L586.4,914.7L585.4,894.5L585.2,894.5L584.2,894.5L584,914.7L585.2,934.3L585.3,934.9L585.2,936L583.6,935.5L582.3,955zM571.2,955L571.8,966.6L572.9,955L573.5,948.9L574.3,934.9L575.2,924.6L576.8,932.7L578.4,934.9L578.5,935.1L578.6,934.9L579.8,914.7L578.5,897.3L578.4,894.5L576.8,894.5L575.2,894.5L574.2,894.5L574.1,914.7L573.5,921.6L572.1,934.9L571.8,938.7zM600.2,955L600.3,957.7L602,959.8L602.5,955L603.7,939.2L605.4,942.9L607,954.7L608.7,953.8L610.4,946.1L610.4,934.9L610.4,924.9L609.8,914.7L609.4,894.5L608.7,894.5L608.1,894.5L608.3,914.7L608.7,930L609,934.9L608.7,936.9L607,937L606.8,934.9L605.4,925.2L603.9,914.7L603.7,910.5L602.5,914.7L602,916.2L600.3,921.6L600.1,914.7L600.3,909.6L601.3,894.5L600.3,894.5L598.7,894.5L597.6,894.5L597,909.7L596.4,914.7L597,920.1L598.7,928.7L598.9,934.9zM514.2,934.9L514.8,939.2L516.4,939.8L517.1,934.9L518.1,924.6L519.8,933.9L521.5,928.2L522.7,914.7L523.2,911.5L524.8,901.8L525.3,894.5L524.8,894.5L523.2,894.5L521.5,894.5L521.1,894.5L519.8,905.1L518.1,900.2L516.4,901.8L514.8,907.5L513.8,894.5L513.1,894.5L511.8,894.5L511.9,914.7L513.1,924.4zM551.6,934.9L551.7,935.5L551.7,934.9L551.9,914.7L552.1,894.5L551.7,894.5L550,894.5L548.3,894.5L546.6,894.5L545,894.5L544.8,894.5L545,895.5L546.6,899.9L548.3,910.4L548.7,914.7L550,924.1zM541.5,894.5L541.6,897.8L541.7,894.5L541.6,894.5z"/>
<path fill="#ff0000" d="M606.8,934.9L607,937L608.7,936.9L609,934.9L608.7,930L608.3,914.7L608.1,894.5L607,894.5L605.4,894.5L603.7,894.5L602,894.5L601.3,894.5L600.3,909.6L600.1,914.7L600.3,921.6L602,916.2L602.5,914.7L603.7,910.5L603.9,914.7L605.4,925.2zM586.4,914.7L586.9,918.2L587,914.7L587.4,894.5L586.9,894.5L585.4,894.5zM513.8,894.5L514.8,907.5L516.4,901.8L518.1,900.2L519.8,905.1L521.1,894.5L519.8,894.5L518.1,894.5L516.4,894.5L514.8,894.5zM562.8,894.5L563.4,903.1L563.8,894.5L563.4,894.5zM593,894.5L593.6,901.6L594.1,894.5L593.6,894.5z"/>
</g>
<rect x="375.5" y="894.5" width="234.9" height="201.8" fill="none" stroke="#000" stroke-width="1"/>
<path d="M392.3,1096.3v4.2M425.8,1096.3v4.2M459.4,1096.3v4.2M492.9,1096.3v4.2M526.5,1096.3v4.2M560.1,1096.3v4.2M593.6,1096.3v4.2M375.5,1096.3v2.3M409.1,1096.3v2.3M442.6,1096.3v2.3M476.2,1096.3v2.3M509.7,1096.3v2.3M543.3,1096.3v2.3M576.8,1096.3v2.3M610.4,1096.3v2.3M375.5,1096.3h-4.2M375.5,1055.9h-4.2M375.5,1015.6h-4.2M375.5,975.2h-4.2M375.5,934.9h-4.2M375.5,894.5h-4.2M375.5,1076.1h-2.3M375.5,1035.8h-2.3M375.5,995.4h-2.3M375.5,955.0h-2.3M375.5,914.7h-2.3" stroke="#000" stroke-width=".9" fill="none"/>
<g style="font-family:'Liberation Serif',serif;font-weight:bold;font-size:8.72px" text-anchor="middle">
<text transform="translate(392.3,1109.8) scale(1.170,1)">20000</text>
<text transform="translate(425.8,1109.8) scale(1.170,1)">40000</text>
<text transform="translate(459.4,1109.8) scale(1.170,1)">60000</text>
<text transform="translate(492.9,1109.8) scale(1.170,1)">80000</text>
<text transform="translate(526.5,1109.8) scale(1.170,1)">100000</text>
<text transform="translate(560.1,1109.8) scale(1.170,1)">120000</text>
<text transform="translate(593.6,1109.8) scale(1.170,1)">140000</text>
</g>
<g style="font-family:'Liberation Serif',serif;font-weight:bold;font-size:8.72px" text-anchor="end">
<text transform="translate(367.9,1099.4) scale(1.170,1)">0</text>
<text transform="translate(367.9,1059.0) scale(1.170,1)">5</text>
<text transform="translate(367.9,1018.7) scale(1.170,1)">10</text>
<text transform="translate(367.9,978.3) scale(1.170,1)">15</text>
<text transform="translate(367.9,938.0) scale(1.170,1)">20</text>
<text transform="translate(367.9,897.6) scale(1.170,1)">25</text>
</g>
<text transform="translate(492.9,1123.1) scale(1.170,1)" text-anchor="middle" style="font-family:'Liberation Serif',serif;font-weight:bold;font-size:10.85px">Steps</text>
<text transform="translate(354.2,991.5) scale(1.170,1) rotate(-90)" text-anchor="middle" style="font-family:'Liberation Serif',serif;font-weight:bold;font-size:11.40px">Cutting angle(°)</text>
<rect x="626.0" y="893.00" width="24.1" height="14.37" fill="#000000"/>
<rect x="626.0" y="907.07" width="24.1" height="14.37" fill="#0000ff"/>
<rect x="626.0" y="921.13" width="24.1" height="14.37" fill="#0080ff"/>
<rect x="626.0" y="935.20" width="24.1" height="14.37" fill="#00ffff"/>
<rect x="626.0" y="949.27" width="24.1" height="14.37" fill="#00ff80"/>
<rect x="626.0" y="963.33" width="24.1" height="14.37" fill="#00f000"/>
<rect x="626.0" y="977.40" width="24.1" height="14.37" fill="#ffff00"/>
<rect x="626.0" y="991.47" width="24.1" height="14.37" fill="#ff8000"/>
<rect x="626.0" y="1005.53" width="24.1" height="14.07" fill="#ff0000"/>
<g style="font-family:'Liberation Serif',serif;font-weight:bold;font-size:8.2px">
<text x="653.6" y="909.9">0.000</text>
<text x="653.6" y="923.9">23.75</text>
<text x="653.6" y="938.0">47.50</text>
<text x="653.6" y="952.1">71.25</text>
<text x="653.6" y="966.1">95.00</text>
<text x="653.6" y="980.2">118.8</text>
<text x="653.6" y="994.3">142.5</text>
<text x="653.6" y="1008.3">166.3</text>
<text x="653.6" y="1022.4">190.0</text>
</g>
<text x="322.8" y="1150.9" text-anchor="middle" style="font-family:'Liberation Serif',serif;font-size:17.4px">d) cutting force</text>
</svg></body></html>
